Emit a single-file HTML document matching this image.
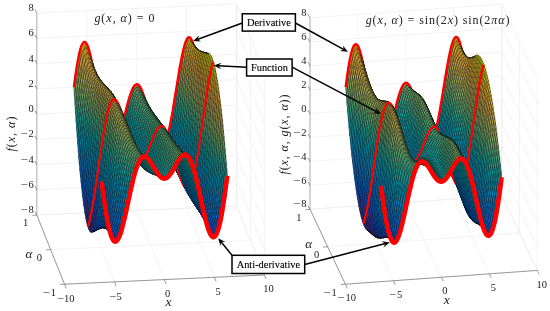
<!DOCTYPE html><html><head><meta charset="utf-8"><title>Fractional derivative surfaces</title><style>html,body{margin:0;padding:0;background:#fff}svg{display:block}.fgL{fill:url(#gL);stroke:url(#gL);stroke-width:.5}.fgR{fill:url(#gR);stroke:url(#gR);stroke-width:.5}.r{fill:none;stroke:#000;stroke-width:0.55}.c{fill:none;stroke:#000;stroke-width:0.45}.s{fill:none;stroke:#000;stroke-width:1;stroke-linecap:round}</style></head><body>
<svg width="550" height="311" viewBox="0 0 550 311" font-family="'Liberation Serif',serif" fill="#222">
<rect width="550" height="311" fill="#fff"/>
<line x1="64.5" y1="284.2" x2="36.8" y2="215.1" stroke="#ebebeb" stroke-width="0.6"/>
<line x1="36.8" y1="215.1" x2="36.8" y2="13.0" stroke="#ebebeb" stroke-width="0.6"/>
<line x1="114.5" y1="281.9" x2="86.8" y2="212.8" stroke="#ebebeb" stroke-width="0.6"/>
<line x1="86.8" y1="212.8" x2="86.8" y2="10.7" stroke="#ebebeb" stroke-width="0.6"/>
<line x1="164.4" y1="279.6" x2="136.8" y2="210.5" stroke="#ebebeb" stroke-width="0.6"/>
<line x1="136.8" y1="210.5" x2="136.8" y2="8.4" stroke="#ebebeb" stroke-width="0.6"/>
<line x1="214.4" y1="277.3" x2="186.7" y2="208.2" stroke="#ebebeb" stroke-width="0.6"/>
<line x1="186.7" y1="208.2" x2="186.7" y2="6.1" stroke="#ebebeb" stroke-width="0.6"/>
<line x1="264.4" y1="275.0" x2="236.7" y2="205.9" stroke="#ebebeb" stroke-width="0.6"/>
<line x1="236.7" y1="205.9" x2="236.7" y2="3.8" stroke="#ebebeb" stroke-width="0.6"/>
<line x1="64.5" y1="284.2" x2="264.4" y2="275.0" stroke="#ebebeb" stroke-width="0.6"/>
<line x1="264.4" y1="275.0" x2="264.4" y2="72.9" stroke="#ebebeb" stroke-width="0.6"/>
<line x1="50.6" y1="249.6" x2="250.5" y2="240.4" stroke="#ebebeb" stroke-width="0.6"/>
<line x1="250.5" y1="240.4" x2="250.5" y2="38.4" stroke="#ebebeb" stroke-width="0.6"/>
<line x1="36.8" y1="215.1" x2="236.7" y2="205.9" stroke="#ebebeb" stroke-width="0.6"/>
<line x1="236.7" y1="205.9" x2="236.7" y2="3.8" stroke="#ebebeb" stroke-width="0.6"/>
<line x1="36.8" y1="215.1" x2="236.7" y2="205.9" stroke="#ebebeb" stroke-width="0.6"/>
<line x1="236.7" y1="205.9" x2="264.4" y2="275.0" stroke="#ebebeb" stroke-width="0.6"/>
<line x1="36.8" y1="189.8" x2="236.7" y2="180.6" stroke="#ebebeb" stroke-width="0.6"/>
<line x1="236.7" y1="180.6" x2="264.4" y2="249.7" stroke="#ebebeb" stroke-width="0.6"/>
<line x1="36.8" y1="164.6" x2="236.7" y2="155.4" stroke="#ebebeb" stroke-width="0.6"/>
<line x1="236.7" y1="155.4" x2="264.4" y2="224.5" stroke="#ebebeb" stroke-width="0.6"/>
<line x1="36.8" y1="139.3" x2="236.7" y2="130.1" stroke="#ebebeb" stroke-width="0.6"/>
<line x1="236.7" y1="130.1" x2="264.4" y2="199.2" stroke="#ebebeb" stroke-width="0.6"/>
<line x1="36.8" y1="114.1" x2="236.7" y2="104.9" stroke="#ebebeb" stroke-width="0.6"/>
<line x1="236.7" y1="104.9" x2="264.4" y2="174.0" stroke="#ebebeb" stroke-width="0.6"/>
<line x1="36.8" y1="88.8" x2="236.7" y2="79.6" stroke="#ebebeb" stroke-width="0.6"/>
<line x1="236.7" y1="79.6" x2="264.4" y2="148.7" stroke="#ebebeb" stroke-width="0.6"/>
<line x1="36.8" y1="63.5" x2="236.7" y2="54.3" stroke="#ebebeb" stroke-width="0.6"/>
<line x1="236.7" y1="54.3" x2="264.4" y2="123.4" stroke="#ebebeb" stroke-width="0.6"/>
<line x1="36.8" y1="38.3" x2="236.7" y2="29.1" stroke="#ebebeb" stroke-width="0.6"/>
<line x1="236.7" y1="29.1" x2="264.4" y2="98.2" stroke="#ebebeb" stroke-width="0.6"/>
<line x1="36.8" y1="13.0" x2="236.7" y2="3.8" stroke="#ebebeb" stroke-width="0.6"/>
<line x1="236.7" y1="3.8" x2="264.4" y2="72.9" stroke="#ebebeb" stroke-width="0.6"/>
<line x1="64.5" y1="284.2" x2="264.4" y2="275.0" stroke="#707070" stroke-width="0.7"/>
<line x1="64.5" y1="284.2" x2="36.8" y2="215.1" stroke="#707070" stroke-width="0.7"/>
<line x1="36.8" y1="215.1" x2="36.8" y2="13.0" stroke="#a0a0a0" stroke-width="0.8"/>
<line x1="64.5" y1="284.2" x2="66.2" y2="288.4" stroke="#707070" stroke-width="0.7"/>
<line x1="114.5" y1="281.9" x2="116.1" y2="286.1" stroke="#707070" stroke-width="0.7"/>
<line x1="164.4" y1="279.6" x2="166.1" y2="283.8" stroke="#707070" stroke-width="0.7"/>
<line x1="214.4" y1="277.3" x2="216.1" y2="281.5" stroke="#707070" stroke-width="0.7"/>
<line x1="264.4" y1="275.0" x2="266.1" y2="279.2" stroke="#707070" stroke-width="0.7"/>
<line x1="64.5" y1="284.2" x2="60.0" y2="284.4" stroke="#707070" stroke-width="0.7"/>
<line x1="50.6" y1="249.6" x2="46.2" y2="249.9" stroke="#707070" stroke-width="0.7"/>
<line x1="36.8" y1="215.1" x2="32.3" y2="215.3" stroke="#707070" stroke-width="0.7"/>
<line x1="36.8" y1="215.1" x2="34.8" y2="211.5" stroke="#707070" stroke-width="0.7"/>
<line x1="36.8" y1="189.8" x2="34.8" y2="186.2" stroke="#707070" stroke-width="0.7"/>
<line x1="36.8" y1="164.6" x2="34.8" y2="161.0" stroke="#707070" stroke-width="0.7"/>
<line x1="36.8" y1="139.3" x2="34.8" y2="135.7" stroke="#707070" stroke-width="0.7"/>
<line x1="36.8" y1="114.1" x2="34.8" y2="110.5" stroke="#707070" stroke-width="0.7"/>
<line x1="36.8" y1="88.8" x2="34.8" y2="85.2" stroke="#707070" stroke-width="0.7"/>
<line x1="36.8" y1="63.5" x2="34.8" y2="59.9" stroke="#707070" stroke-width="0.7"/>
<line x1="36.8" y1="38.3" x2="34.8" y2="34.7" stroke="#707070" stroke-width="0.7"/>
<line x1="36.8" y1="13.0" x2="34.8" y2="9.4" stroke="#707070" stroke-width="0.7"/>
<text x="20.9" y="213.2" font-size="10.5" textLength="7.2" lengthAdjust="spacingAndGlyphs">−</text><text x="33.8" y="213.2" font-size="10.5" text-anchor="end">8</text>
<text x="20.9" y="187.9" font-size="10.5" textLength="7.2" lengthAdjust="spacingAndGlyphs">−</text><text x="33.8" y="187.9" font-size="10.5" text-anchor="end">6</text>
<text x="20.9" y="162.7" font-size="10.5" textLength="7.2" lengthAdjust="spacingAndGlyphs">−</text><text x="33.8" y="162.7" font-size="10.5" text-anchor="end">4</text>
<text x="20.9" y="137.4" font-size="10.5" textLength="7.2" lengthAdjust="spacingAndGlyphs">−</text><text x="33.8" y="137.4" font-size="10.5" text-anchor="end">2</text>
<text x="31.2" y="112.2" font-size="10.5" text-anchor="middle">0</text>
<text x="31.2" y="86.9" font-size="10.5" text-anchor="middle">2</text>
<text x="31.2" y="61.6" font-size="10.5" text-anchor="middle">4</text>
<text x="31.2" y="36.4" font-size="10.5" text-anchor="middle">6</text>
<text x="31.2" y="11.1" font-size="10.5" text-anchor="middle">8</text>
<text x="43.0" y="295.5" font-size="10.5" textLength="7.2" lengthAdjust="spacingAndGlyphs">−</text><text x="55.9" y="295.5" font-size="10.5" text-anchor="end">1</text>
<text x="39.4" y="260.9" font-size="10.5" text-anchor="middle">0</text>
<text x="25.6" y="226.4" font-size="10.5" text-anchor="middle">1</text>
<text x="57.3" y="301.9" font-size="10.5" textLength="7.2" lengthAdjust="spacingAndGlyphs">−</text><text x="74.5" y="301.9" font-size="10.5" text-anchor="end">10</text>
<text x="109.5" y="299.7" font-size="10.5" textLength="7.2" lengthAdjust="spacingAndGlyphs">−</text><text x="121.8" y="299.7" font-size="10.5" text-anchor="end">5</text>
<text x="167.7" y="296.9" font-size="10.5" text-anchor="middle">0</text>
<text x="218.1" y="294.5" font-size="10.5" text-anchor="middle">5</text>
<text x="268.4" y="291.7" font-size="10.5" text-anchor="middle">10</text>
<defs><linearGradient id="gL" gradientUnits="userSpaceOnUse" x1="-0.93" y1="-20.17" x2="-8.35" y2="-181.49"><stop offset="0%" stop-color="#352a87"/><stop offset="4.5%" stop-color="#3636a0"/><stop offset="9.1%" stop-color="#3046bd"/><stop offset="13.6%" stop-color="#135adb"/><stop offset="18.2%" stop-color="#026ae1"/><stop offset="22.7%" stop-color="#0d75dc"/><stop offset="27.3%" stop-color="#137fd6"/><stop offset="31.8%" stop-color="#128bd2"/><stop offset="36.4%" stop-color="#0899d1"/><stop offset="40.9%" stop-color="#06a4c9"/><stop offset="45.5%" stop-color="#0aacbd"/><stop offset="50%" stop-color="#1db3af"/><stop offset="54.5%" stop-color="#37b99e"/><stop offset="59.1%" stop-color="#58bd8c"/><stop offset="63.6%" stop-color="#7cbf7c"/><stop offset="68.2%" stop-color="#9cbf6e"/><stop offset="72.7%" stop-color="#b8bd63"/><stop offset="77.3%" stop-color="#d2bb58"/><stop offset="81.8%" stop-color="#ecb94d"/><stop offset="86.4%" stop-color="#fec03a"/><stop offset="90.9%" stop-color="#fad12b"/><stop offset="95.5%" stop-color="#f5e31e"/><stop offset="100%" stop-color="#f9fb0e"/></linearGradient></defs>
<g transform="translate(37.1 215.8)"><path class="fgL" d="M37.4 -119.6l2.5-18.3 2.5-14.5 2.5-9.9 2.6-5 2.5-.1 2.5 4.7 2.5 8.6 2.5 11.7 2.5 13.6 2.5 14.3 2.5 13.9 2.5 12.4 2.6 10 2.5 6.8 2.5 3.3 2.5-.2 2.5-3.5 2.5-6.3 2.5-8.3 2.5-9.5 2.6-9.7 2.5-8.9 2.5-7.2 2.5-4.9 2.5-2.1 2.5 .9 2.5 3.8 2.5 6.4 2.6 8.4 2.5 9.5 2.5 9.7 2.5 9 2.5 7.2 2.5 4.7 2.5 1.6 2.5-2.1 2.5-5.7 2.6-9.2 2.5-12.1 2.5-14.1 2.5-15.2 2.5-15.1 2.5-13.7 2.5-11 2.5-7.5 2.6-2.9 2.5 2.1 2.5 7.3 2.5 12.2 2.5 16.7-.5 3.3-2.6-18-2.5-13.8-2.5-8.8-2.5-3.5-2.5 1.8-2.5 6.5-2.5 10.5-2.5 13.4-2.6 15.2-2.5 15.6-2.5 14.8-2.5 12.8-2.5 10.1-2.5 6.6-2.5 2.9-2.5-.9-2.6-4.2-2.5-7.1-2.5-9-2.5-10-2.5-10-2.5-9-2.5-7-2.5-4.5-2.6-1.5-2.5 1.7-2.5 4.7-2.5 7.3-2.5 9.2-2.5 10.2-2.5 10.3-2.5 9.2-2.5 7.3-2.6 4.5-2.5 1.1-2.5-2.6-2.5-6.4-2.5-9.8-2.5-12.7-2.5-14.6-2.5-15.3-2.6-14.9-2.5-13.3-2.5-10.2-2.5-6.3-2.5-1.5-2.5 3.7-2.5 9-2.5 14-2.6 18.3z"/><path class="r" d="M36.8 -128.7l1.3-9.6 1.3-8.7 1.2-7.6 1.3-6.4 1.2-5.2 1.3-3.8 1.2-2.5 1.3-1.2 1.3 .1 1.2 1.4 1.3 2.6 1.2 3.7 1.3 4.7 1.2 5.5 1.3 6.4 1.2 6.9 1.3 7.3 1.3 7.6 1.2 7.7 1.3 7.6 1.2 7.5 1.3 7.1 1.2 6.6 1.3 6.1 1.2 5.3 1.3 4.5 1.3 3.6 1.2 2.8 1.3 1.8 1.2 .8 1.3-.1 1.2-1 1.3-1.8 1.3-2.7 1.2-3.3 1.3-4 1.2-4.4 1.3-4.8 1.2-5.1 1.3-5.2 1.2-5.2 1.3-5 1.3-4.8 1.2-4.4 1.3-3.9 1.2-3.4 1.3-2.7 1.2-2 1.3-1.2 1.2-.5 1.3 .3 1.3 1.2 1.2 1.9 1.3 2.6 1.2 3.2 1.3 3.8 1.2 4.3 1.3 4.7 1.3 4.9 1.2 5.1 1.3 5 1.2 5 1.3 4.7 1.2 4.3 1.3 3.8 1.2 3.3 1.3 2.5 1.3 1.7 1.2 .9 1.3 0 1.2-1 1.3-1.9 1.2-2.8 1.3-3.8 1.3-4.6 1.2-5.5 1.3-6.1 1.2-6.7 1.3-7.3 1.2-7.5 1.3-7.8 1.2-7.8 1.3-7.7 1.3-7.5 1.2-7 1.3-6.4 1.2-5.7 1.3-4.8 1.2-3.8 1.3-2.7 1.2-1.5 1.3-.3 1.3 1.1 1.2 2.4 1.3 3.7 1.2 5.1 1.3 6.3 1.2 7.5 1.3 8.5 1.3 9.5"/><path class="c" d="M162.5 -134.5m0 0l.5-3.3m-1.8-6.2l.5-2.6m-1.8-5.9l.6-2m-1.8-5.5l.5-1.2m-1.8-5.1l.6-.4m-1.8-4.7l.5 .4m-1.8-4.1l.6 1.1m-1.8-3.5l.5 1.8m-1.8-2.9l.6 2.5m-1.9-2.2l.6 3.1m-1.8-1.6l.5 3.6m-1.8-.9l.6 4.1m-1.8-.3l.5 4.6m-1.8 .2l.6 4.9m-1.8 .8l.5 5.1m-1.8 1.3l.6 5.3m-1.8 1.7l.5 5.4m-1.8 2.1l.6 5.4m-1.9 2.3l.6 5.3m-1.8 2.5l.5 5.1m-1.8 2.7l.6 4.9m-1.8 2.6l.5 4.6m-1.8 2.7l.6 4.2m-1.8 2.5l.5 3.9m-1.8 2.2l.6 3.5m-1.8 2l.5 3m-1.8 1.6l.5 2.6m-1.8 1.2l.6 2.1m-1.8 .7l.5 1.7m-1.8 .2l.6 1.3m-1.8-.3l.5 .9m-1.8-.9l.6 .5m-1.8-1.4l.5 .2m-1.8-1.9l.6 0m-1.9-2.5l.6-.3m-1.8-3l.5-.3m-1.8-3.5l.6-.4m-1.8-3.9l.5-.4m-1.8-4.3l.6-.4m-1.8-4.6l.5-.2m-1.8-4.8l.6-.1m-1.8-5l.5 .1m-1.8-5l.6 .4m-1.9-5.1l.6 .7m-1.8-5l.5 1m-1.8-4.8l.6 1.3m-1.8-4.5l.5 1.6m-1.8-4.2l.6 1.9m-1.8-3.8l.5 2.3m-1.8-3.5l.6 2.7m-1.9-3l.6 2.9m-1.8-2.4l.5 3.1m-1.8-1.9l.6 3.3m-1.8-1.3l.5 3.4m-1.8-.7l.6 3.5m-1.8-.1l.5 3.5m-1.8 .4l.6 3.4m-1.8 1l.5 3.3m-1.8 1.5l.6 3.1m-1.9 1.9l.6 2.9m-1.8 2.3l.5 2.6m-1.8 2.6l.6 2.2m-1.8 2.9l.5 1.8m-1.8 3l.6 1.3m-1.8 3.1l.5 .9m-1.8 3.1l.6 .4m-1.8 2.9l.5-.1m-1.8 2.8l.6-.7m-1.9 2.5l.6-1.1m-1.8 2.1l.5-1.6m-1.8 1.7l.6-2m-1.8 1.2l.5-2.4m-1.8 .6l.6-2.7m-1.8-.1l.5-2.9m-1.8-.7l.6-3.1m-1.9-1.4l.6-3.3m-1.8-2l.5-3.3m-1.8-2.8l.6-3.1m-1.8-3.5l.5-3m-1.8-4.1l.6-2.7m-1.8-4.8l.5-2.3m-1.8-5.3l.6-1.9m-1.8-5.8l.5-1.3m-1.8-6.3l.6-.7m-1.9-6.6l.6 0m-1.8-6.9l.5 .7m-1.8-7.1l.6 1.6m-1.8-7.1l.5 2.3m-1.8-7l.6 3.2m-1.8-6.9l.5 4m-1.8-6.6l.6 4.8m-1.8-6.2l.5 5.6m-1.8-5.7l.6 6.4m-1.9-5.2l.6 7m-1.8-4.5l.5 7.7m-1.8-3.9l.6 8.3m-1.8-3.1l.5 8.6m-1.8-2.2l.6 9m-1.8-1.4l.5 9.1m-1.8-.4l.6 9.2m-1.9 .4l.6 9.1"/><path class="s" d="M53.7 -158.9L53.2 -161.2M78.9 -69.7L78.3 -69M106.5 -121.1L105.9 -122.4M124.1 -67.9L123.5 -68.4M155.5 -174L154.9 -175.1"/></g>
<g transform="translate(37.6 217.2)"><path class="fgL" d="M37.5 -112.2l2.5-18.2 2.5-14.9 2.5-10.9 2.5-6.2 2.5-1.5 2.5 3 2.5 7 2.6 10.2 2.5 12.3 2.5 13.4 2.5 13.3 2.5 12.1 2.5 10 2.5 7.2 2.5 4 2.5 .6 2.6-2.5 2.5-5.3 2.5-7.5 2.5-8.7 2.5-9.1 2.5-8.6 2.5-7.2 2.5-5.1 2.6-2.5 2.5 .4 2.5 3.2 2.5 5.7 2.5 7.8 2.5 9 2.5 9.5 2.5 8.9 2.6 7.4 2.5 5.2 2.5 2.1 2.5-1.3 2.5-4.9 2.5-8.3 2.5-11.2 2.5-13.6 2.6-14.7 2.5-15 2.5-13.9 2.5-11.6 2.5-8.3 2.5-4.1 2.5 .7 2.5 5.9 2.5 10.8 2.6 15.2-.6 3.2-2.5-16.7-2.5-12.2-2.5-7.3-2.5-2.1-2.6 2.9-2.5 7.5-2.5 11-2.5 13.7-2.5 15.1-2.5 15.2-2.5 14.1-2.5 12.1-2.6 9.2-2.5 5.7-2.5 2.1-2.5-1.6-2.5-4.7-2.5-7.2-2.5-9-2.5-9.7-2.5-9.5-2.6-8.4-2.5-6.4-2.5-3.8-2.5-.9-2.5 2.1-2.5 4.9-2.5 7.2-2.5 8.9-2.6 9.7-2.5 9.5-2.5 8.3-2.5 6.3-2.5 3.5-2.5 .2-2.5-3.3-2.5-6.8-2.6-10-2.5-12.4-2.5-13.9-2.5-14.3-2.5-13.6-2.5-11.7-2.5-8.6-2.5-4.7-2.5 .1-2.6 5-2.5 9.9-2.5 14.5-2.5 18.3z"/><path class="r" d="M36.9 -121l1.3-9.5 1.2-8.8 1.3-7.7 1.2-6.8 1.3-5.5 1.2-4.4 1.3-3.2 1.3-1.8 1.2-.7 1.3 .6 1.2 1.8 1.3 2.9 1.2 3.8 1.3 4.8 1.2 5.5 1.3 6.2 1.3 6.6 1.2 7 1.3 7.1 1.2 7.2 1.3 7.1 1.2 6.8 1.3 6.5 1.2 5.9 1.3 5.3 1.3 4.7 1.2 3.8 1.3 3 1.2 2.1 1.3 1.2 1.2 .3 1.3-.5 1.3-1.4 1.2-2.1 1.3-2.8 1.2-3.5 1.3-4 1.2-4.3 1.3-4.7 1.2-4.8 1.3-4.9 1.3-4.8 1.2-4.6 1.3-4.3 1.2-3.8 1.3-3.4 1.2-2.8 1.3-2.1 1.2-1.4 1.3-.7 1.3 .1 1.2 .8 1.3 1.5 1.2 2.3 1.3 2.9 1.2 3.5 1.3 4 1.3 4.4 1.2 4.6 1.3 4.9 1.2 4.9 1.3 4.8 1.2 4.7 1.3 4.3 1.2 3.9 1.3 3.3 1.3 2.8 1.2 1.9 1.3 1.2 1.2 .4 1.3-.6 1.2-1.5 1.3-2.4 1.2-3.3 1.3-4.2 1.3-5 1.2-5.7 1.3-6.4 1.2-6.9 1.3-7.2 1.2-7.6 1.3-7.6 1.3-7.6 1.2-7.5 1.3-7.1 1.2-6.6 1.3-5.9 1.2-5.1 1.3-4.3 1.2-3.2 1.3-2 1.3-.9 1.2 .4 1.3 1.7 1.2 3 1.3 4.3 1.2 5.5 1.3 6.7 1.2 7.9 1.3 8.8"/><path class="c" d="M162.5 -139.2m0 0l.6-3.2m-1.9-5.6l.6-2.5m-1.8-5.4l.5-1.7m-1.8-5l.6-1m-1.8-4.5l.5-.3m-1.8-4l.6 .4m-1.8-3.4l.5 1.1m-1.8-2.8l.6 1.9m-1.8-2.3l.5 2.5m-1.8-1.6l.6 3.1m-1.9-1.1l.6 3.7m-1.8-.5l.5 4.2m-1.8 .1l.6 4.5m-1.8 .6l.5 4.9m-1.8 1l.6 5.1m-1.8 1.5l.5 5.3m-1.8 1.8l.6 5.3m-1.8 2.2l.5 5.2m-1.8 2.4l.6 5.2m-1.9 2.4l.6 5m-1.8 2.6l.5 4.7m-1.8 2.5l.6 4.5m-1.8 2.4l.5 4.2m-1.8 2.2l.6 3.7m-1.8 2l.5 3.3m-1.8 1.7l.6 2.9m-1.9 1.3l.6 2.4m-1.8 .9l.5 2m-1.8 .4l.6 1.6m-1.8-.1l.5 1.2m-1.8-.6l.6 .8m-1.8-1.2l.5 .5m-1.8-1.7l.6 .3m-1.8-2.2l.5-.1m-1.8-2.7l.6-.2m-1.9-3.1l.6-.3m-1.8-3.6l.5-.4m-1.8-3.9l.6-.4m-1.8-4.3l.5-.3m-1.8-4.5l.6-.2m-1.8-4.7l.5-.1m-1.8-4.8l.6 .2m-1.8-4.8l.5 .4m-1.8-4.8l.6 .7m-1.9-4.7l.6 1m-1.8-4.5l.5 1.4m-1.8-4.3l.6 1.7m-1.8-4l.5 2m-1.8-3.5l.6 2.3m-1.8-3.1l.5 2.5m-1.8-2.6l.6 2.8m-1.9-2.1l.6 3m-1.8-1.6l.5 3.2m-1.8-1.1l.6 3.4m-1.8-.6l.5 3.4m-1.8 0l.6 3.4m-1.8 .4l.5 3.4m-1.8 .9l.6 3.3m-1.8 1.3l.5 3.1m-1.8 1.7l.6 2.8m-1.9 2.1l.6 2.5m-1.8 2.3l.5 2.2m-1.8 2.5l.6 1.7m-1.8 2.6l.5 1.4m-1.8 2.6l.6 .9m-1.8 2.6l.5 .3m-1.8 2.5l.6-.1m-1.8 2.2l.5-.6m-1.8 2l.5-1.1m-1.8 1.6l.6-1.5m-1.8 1.2l.5-1.9m-1.8 .7l.6-2.3m-1.8 .2l.5-2.6m-1.8-.4l.6-2.8m-1.8-1l.5-3m-1.8-1.7l.6-3m-1.9-2.3l.6-3m-1.8-2.9l.5-3m-1.8-3.5l.6-2.7m-1.8-4.1l.5-2.5m-1.8-4.6l.6-2.1m-1.8-5.1l.5-1.6m-1.8-5.5l.6-1.2m-1.8-5.8l.5-.5m-1.8-6.1l.6 .1m-1.9-6.3l.6 .9m-1.8-6.4l.5 1.6m-1.8-6.4l.6 2.4m-1.8-6.2l.5 3.2m-1.8-6.1l.6 4m-1.8-5.8l.5 4.9m-1.8-5.5l.6 5.6m-1.8-4.9l.5 6.3m-1.8-4.5l.5 7m-1.8-3.8l.6 7.5m-1.8-3.1l.5 8m-1.8-2.5l.6 8.5m-1.8-1.7l.5 8.7m-1.8-1l.6 8.9m-1.8-.1l.5 8.9m-1.8 .6l.6 8.8"/><path class="s" d="M55 -153.9L54.5 -155.5M78.9 -71.7L78.4 -71.1M106.5 -121.1L106 -122.5M124.1 -68.8L123.6 -69.3M155.5 -174.3L155 -175.4M53.2 -160.3L54.5 -155.5"/></g>
<path d="M73.9,87.1 74.7,81.0 75.5,75.2 76.3,69.8 77.1,64.9 77.9,60.4 78.7,56.3 79.4,52.7 80.2,49.6 81.0,47.1 81.8,45.0 82.6,43.5 83.4,42.5 84.2,42.0 84.9,42.0 85.7,42.6 86.5,43.6 87.3,45.1 88.1,47.0 88.9,49.4 89.6,52.1 90.4,55.2 91.2,58.7 92.0,62.4 92.8,66.5 93.6,70.7 94.4,75.2 95.1,79.7 95.9,84.5 96.7,89.2 97.5,94.1 98.3,98.9 99.1,103.6 99.9,108.3 100.6,112.9 101.4,117.3 102.2,121.6 103.0,125.6 103.8,129.4 104.6,132.9 105.3,136.2 106.1,139.1 106.9,141.7 107.7,143.9 108.5,145.8 109.3,147.3 110.1,148.5 110.8,149.3 111.6,149.7 112.4,149.8 113.2,149.4 114.0,148.8 114.8,147.8 115.6,146.5 116.3,144.8 117.1,142.9 117.9,140.8 118.7,138.4 119.5,135.8 120.3,133.0 121.0,130.0 121.8,127.0 122.6,123.8 123.4,120.6 124.2,117.3 125.0,114.1 125.8,110.9 126.5,107.7 127.3,104.7 128.1,101.7 128.9,99.0 129.7,96.4 130.5,94.0 131.3,91.8 132.0,89.9 132.8,88.2 133.6,86.8 134.4,85.7 135.2,84.9 136.0,84.4 136.8,84.2 137.5,84.3 138.3,84.7 139.1,85.5 139.9,86.5 140.7,87.8 141.5,89.4 142.2,91.3 143.0,93.4 143.8,95.7 144.6,98.3 145.4,101.0 146.2,103.8 147.0,106.8 147.7,109.9 148.5,113.0 149.3,116.2 150.1,119.3 150.9,122.5 151.7,125.6 152.5,128.6 153.2,131.5 154.0,134.2 154.8,136.7 155.6,139.0 156.4,141.1 157.2,143.0 157.9,144.5 158.7,145.8 159.5,146.7 160.3,147.3 161.1,147.5 161.9,147.4 162.7,146.9 163.4,146.1 164.2,144.8 165.0,143.2 165.8,141.3 166.6,138.9 167.4,136.3 168.2,133.3 168.9,130.0 169.7,126.4 170.5,122.5 171.3,118.4 172.1,114.1 172.9,109.6 173.6,104.9 174.4,100.2 175.2,95.3 176.0,90.4 176.8,85.6 177.6,80.7 178.4,75.9 179.1,71.2 179.9,66.7 180.7,62.4 181.5,58.3 182.3,54.5 183.1,51.0 183.9,47.8 184.6,45.0 185.4,42.5 186.2,40.5 187.0,39.0 187.8,37.9 188.6,37.3 189.3,37.2 190.1,37.6 190.9,38.5 191.7,40.0 192.5,41.9 193.3,44.4 194.1,47.4 194.8,51.0 195.6,54.9 196.4,59.4 197.2,64.3 198.0,69.6 198.8,75.3 199.6,81.3" fill="none" stroke="#ff0000" stroke-width="2.4" stroke-linecap="butt" stroke-linejoin="round"/>
<g transform="translate(38.2 218.6)"><path class="fgL" d="M37.4 -105.1l2.5-18.1 2.5-15.3 2.5-11.7 2.6-7.4 2.5-3 2.5 1.5 2.5 5.5 2.5 8.7 2.5 11.1 2.5 12.5 2.5 12.6 2.6 11.8 2.5 10.1 2.5 7.5 2.5 4.7 2.5 1.4 2.5-1.6 2.5-4.4 2.5-6.6 2.6-8 2.5-8.6 2.5-8.2 2.5-7.2 2.5-5.2 2.5-2.9 2.5-.2 2.5 2.6 2.5 5.1 2.6 7.2 2.5 8.6 2.5 9.2 2.5 8.9 2.5 7.6 2.5 5.5 2.5 2.7 2.5-.6 2.6-4 2.5-7.4 2.5-10.5 2.5-12.9 2.5-14.4 2.5-14.8 2.5-14 2.5-12.2 2.6-9.1 2.5-5.2 2.5-.6 2.5 4.4 2.5 9.4 2.5 13.9-.5 2.9-2.6-15.2-2.5-10.8-2.5-5.9-2.5-.7-2.5 4.1-2.5 8.3-2.5 11.6-2.5 13.9-2.5 15-2.6 14.7-2.5 13.6-2.5 11.2-2.5 8.3-2.5 4.9-2.5 1.3-2.5-2.1-2.5-5.2-2.6-7.4-2.5-8.9-2.5-9.5-2.5-9-2.5-7.8-2.5-5.7-2.5-3.2-2.5-.4-2.6 2.5-2.5 5.1-2.5 7.2-2.5 8.6-2.5 9.1-2.5 8.7-2.5 7.5-2.5 5.3-2.6 2.5-2.5-.6-2.5-4-2.5-7.2-2.5-10-2.5-12.1-2.5-13.3-2.5-13.4-2.5-12.3-2.6-10.2-2.5-7-2.5-3-2.5 1.5-2.5 6.2-2.5 10.9-2.5 14.9-2.5 18.2z"/><path class="r" d="M36.9 -113.6l1.2-9.4 1.3-8.8 1.2-7.9 1.3-7 1.2-6 1.3-4.9 1.2-3.7 1.3-2.5 1.3-1.4 1.2-.1 1.3 .9 1.2 2.1 1.3 3 1.2 4 1.3 4.8 1.3 5.4 1.2 6 1.3 6.3 1.2 6.7 1.3 6.7 1.2 6.7 1.3 6.6 1.2 6.2 1.3 5.9 1.3 5.3 1.2 4.7 1.3 4 1.2 3.2 1.3 2.4 1.2 1.6 1.3 .7 1.2-.1 1.3-.9 1.3-1.6 1.2-2.4 1.3-2.9 1.2-3.5 1.3-4 1.2-4.2 1.3-4.5 1.3-4.6 1.2-4.5 1.3-4.4 1.2-4.2 1.3-3.8 1.2-3.4 1.3-2.8 1.2-2.3 1.3-1.6 1.3-.9 1.2-.2 1.3 .6 1.2 1.2 1.3 2 1.2 2.6 1.3 3.1 1.3 3.7 1.2 4.1 1.3 4.4 1.2 4.6 1.3 4.8 1.2 4.7 1.3 4.6 1.2 4.3 1.3 4 1.3 3.4 1.2 2.9 1.3 2.3 1.2 1.4 1.3 .7 1.2-.2 1.3-1.1 1.2-2 1.3-2.9 1.3-3.7 1.2-4.6 1.3-5.3 1.2-5.9 1.3-6.6 1.2-7 1.3-7.3 1.3-7.4 1.2-7.6 1.3-7.4 1.2-7.1 1.3-6.8 1.2-6.1 1.3-5.5 1.2-4.6 1.3-3.7 1.3-2.6 1.2-1.5 1.3-.2 1.2 .9 1.3 2.3 1.2 3.6 1.3 4.8 1.2 6 1.3 7.1 1.3 8.1"/><path class="c" d="M162.5 -143.8m0 0l.5-2.9m-1.8-5.2l.6-2.3m-1.9-4.8l.6-1.6m-1.8-4.4l.5-.9m-1.8-3.9l.6-.2m-1.8-3.4l.5 .6m-1.8-2.9l.6 1.3m-1.8-2.2l.5 1.9m-1.8-1.7l.6 2.6m-1.8-1.1l.5 3.2m-1.8-.6l.6 3.7m-1.9 0l.6 4.1m-1.8 .5l.5 4.5m-1.8 1l.6 4.8m-1.8 1.3l.5 5.1m-1.8 1.7l.6 5.1m-1.8 2l.5 5.2m-1.8 2.2l.6 5.2m-1.8 2.4l.5 5m-1.8 2.4l.5 4.9m-1.8 2.4l.6 4.7m-1.8 2.3l.5 4.4m-1.8 2.2l.6 4m-1.8 1.9l.5 3.7m-1.8 1.6l.6 3.3m-1.8 1.3l.5 2.8m-1.8 .9l.6 2.4m-1.9 .5l.6 2m-1.8 0l.5 1.5m-1.8-.4l.6 1.1m-1.8-.9l.5 .8m-1.8-1.5l.6 .5m-1.8-1.9l.5 .2m-1.8-2.5l.6 0m-1.8-2.9l.5-.1m-1.8-3.3l.6-.3m-1.9-3.7l.6-.3m-1.8-4l.5-.4m-1.8-4.2l.6-.3m-1.8-4.4l.5-.2m-1.8-4.6l.6 0m-1.8-4.6l.5 .2m-1.8-4.6l.6 .4m-1.8-4.5l.5 .7m-1.8-4.4l.5 1m-1.8-4.1l.6 1.3m-1.8-3.9l.5 1.6m-1.8-3.6l.6 2m-1.8-3.2l.5 2.2m-1.8-2.8l.6 2.6m-1.8-2.4l.5 2.8m-1.8-1.9l.6 3m-1.9-1.4l.6 3.2m-1.8-.9l.5 3.2m-1.8-.4l.6 3.3m-1.8 .1l.5 3.3m-1.8 .5l.6 3.3m-1.8 .9l.5 3.1m-1.8 1.3l.6 2.9m-1.8 1.6l.5 2.8m-1.8 1.8l.6 2.4m-1.9 2.1l.6 2.1m-1.8 2.1l.5 1.7m-1.8 2.3l.6 1.2m-1.8 2.3l.5 .8m-1.8 2.1l.6 .4m-1.8 2l.5-.1m-1.8 1.7l.6-.5m-1.9 1.4l.6-1m-1.8 1.1l.5-1.4m-1.8 .7l.6-1.8m-1.8 .2l.5-2.2m-1.8-.2l.6-2.5m-1.8-.7l.5-2.7m-1.8-1.3l.6-2.8m-1.8-1.9l.5-2.9m-1.8-2.4l.6-2.9m-1.9-3l.6-2.7m-1.8-3.5l.5-2.6m-1.8-4l.6-2.3m-1.8-4.4l.5-1.9m-1.8-4.8l.6-1.6m-1.8-5.1l.5-1m-1.8-5.3l.6-.4m-1.8-5.6l.5 .2m-1.8-5.6l.6 .9m-1.9-5.7l.6 1.7m-1.8-5.7l.5 2.5m-1.8-5.5l.6 3.2m-1.8-5.3l.5 4.1m-1.8-5l.6 4.7m-1.8-4.6l.5 5.5m-1.8-4.1l.6 6.2m-1.9-3.7l.6 6.8m-1.8-3.1l.5 7.4m-1.8-2.5l.6 7.8m-1.8-1.8l.5 8.2m-1.8-1.2l.6 8.4m-1.8-.5l.5 8.6m-1.8 .2l.6 8.6m-1.8 .8l.5 8.5"/><path class="s" d="M55 -153.6L54.4 -155.3M78.9 -73.6L78.3 -73.1M106.5 -121.2L105.9 -122.5M124.1 -69.7L123.5 -70.2M156.7 -172.8L156.2 -173.4M154.9 -175.7L156.2 -173.4"/></g>
<g transform="translate(38.7 219.9)"><path class="fgL" d="M37.5 -98.2l2.5-18 2.5-15.7 2.5-12.4 2.5-8.5 2.5-4.3 2.5 0 2.5 4 2.6 7.3 2.5 9.9 2.5 11.5 2.5 12 2.5 11.5 2.5 10.1 2.5 7.9 2.5 5.2 2.6 2.3 2.5-.8 2.5-3.5 2.5-5.7 2.5-7.3 2.5-8.1 2.5-7.9 2.5-7.1 2.6-5.4 2.5-3.2 2.5-.7 2.5 2 2.5 4.5 2.5 6.6 2.5 8.2 2.5 8.9 2.6 8.7 2.5 7.8 2.5 5.9 2.5 3.3 2.5 .2 2.5-3.3 2.5-6.6 2.5-9.7 2.5-12.2 2.6-14 2.5-14.7 2.5-14.2 2.5-12.6 2.5-9.9 2.5-6.3 2.5-1.8 2.5 3 2.6 8 2.5 12.6-.6 2.7-2.5-13.9-2.5-9.4-2.5-4.4-2.5 .6-2.5 5.2-2.6 9.1-2.5 12.2-2.5 14-2.5 14.8-2.5 14.4-2.5 12.9-2.5 10.5-2.5 7.4-2.6 4-2.5 .6-2.5-2.7-2.5-5.5-2.5-7.6-2.5-8.9-2.5-9.2-2.5-8.6-2.6-7.2-2.5-5.1-2.5-2.6-2.5 .2-2.5 2.9-2.5 5.2-2.5 7.2-2.5 8.2-2.5 8.6-2.6 8-2.5 6.6-2.5 4.4-2.5 1.6-2.5-1.4-2.5-4.7-2.5-7.5-2.5-10.1-2.6-11.8-2.5-12.6-2.5-12.5-2.5-11.1-2.5-8.7-2.5-5.5-2.5-1.5-2.5 3-2.6 7.4-2.5 11.7-2.5 15.3-2.5 18.1z"/><path class="r" d="M36.9 -106.4l1.3-9.3 1.2-8.8 1.3-8.1 1.2-7.2 1.3-6.4 1.2-5.3 1.3-4.3 1.3-3.1 1.2-2.1 1.3-.9 1.2 .3 1.3 1.2 1.2 2.3 1.3 3.2 1.3 4 1.2 4.7 1.3 5.4 1.2 5.7 1.3 6.1 1.2 6.4 1.3 6.3 1.2 6.3 1.3 6.1 1.3 5.7 1.2 5.3 1.3 4.8 1.2 4.1 1.3 3.4 1.2 2.7 1.3 2 1.2 1.1 1.3 .3 1.3-.4 1.2-1.2 1.3-1.9 1.2-2.5 1.3-3.1 1.2-3.5 1.3-3.8 1.3-4.2 1.2-4.2 1.3-4.4 1.2-4.2 1.3-4 1.2-3.8 1.3-3.4 1.2-2.9 1.3-2.3 1.3-1.8 1.2-1.1 1.3-.4 1.2 .2 1.3 1 1.2 1.6 1.3 2.3 1.2 2.8 1.3 3.4 1.3 3.8 1.2 4.2 1.3 4.4 1.2 4.6 1.3 4.6 1.2 4.5 1.3 4.4 1.3 4 1.2 3.6 1.3 3 1.2 2.5 1.3 1.7 1.2 1 1.3 .1 1.2-.7 1.3-1.5 1.3-2.5 1.2-3.3 1.3-4.1 1.2-4.9 1.3-5.6 1.2-6.2 1.3-6.7 1.2-7.1 1.3-7.3 1.3-7.4 1.2-7.4 1.3-7.2 1.2-6.8 1.3-6.4 1.2-5.8 1.3-5 1.3-4.1 1.2-3.1 1.3-2.1 1.2-.9 1.3 .3 1.2 1.6 1.3 2.8 1.2 4.1 1.3 5.3 1.3 6.4 1.2 7.5"/><path class="c" d="M162.5 -148m0 0l.6-2.7m-1.8-4.8l.5-2m-1.8-4.4l.6-1.4m-1.9-3.9l.6-.7m-1.8-3.4l.5 0m-1.8-2.8l.6 .7m-1.8-2.3l.5 1.4m-1.8-1.7l.6 2m-1.8-1.1l.5 2.6m-1.8-.5l.6 3.2m-1.8-.1l.5 3.7m-1.8 .4l.6 4.1m-1.9 .9l.6 4.5m-1.8 1.3l.5 4.7m-1.8 1.7l.6 4.9m-1.8 1.9l.5 5.1m-1.8 2.1l.6 5.1m-1.8 2.3l.5 5.1m-1.8 2.3l.6 5m-1.9 2.3l.6 4.8m-1.8 2.3l.5 4.6m-1.8 2.1l.6 4.3m-1.8 1.9l.5 3.9m-1.8 1.7l.6 3.5m-1.8 1.4l.5 3.1m-1.8 1l.6 2.7m-1.8 .6l.5 2.3m-1.8 .2l.6 1.9m-1.9-.4l.6 1.6m-1.8-.9l.5 1.2m-1.8-1.3l.6 .8m-1.8-1.8l.5 .5m-1.8-2.2l.6 .2m-1.8-2.7l.5 0m-1.8-3l.6-.2m-1.8-3.4l.5-.3m-1.8-3.7l.6-.4m-1.9-4l.6-.3m-1.8-4.2l.5-.2m-1.8-4.4l.6-.1m-1.8-4.5l.5 .1m-1.8-4.5l.6 .3m-1.8-4.5l.5 .5m-1.8-4.3l.6 .8m-1.9-4.2l.6 1.1m-1.8-3.9l.5 1.3m-1.8-3.6l.6 1.7m-1.8-3.3l.5 2m-1.8-3l.6 2.3m-1.8-2.5l.5 2.5m-1.8-2.1l.6 2.8m-1.8-1.7l.5 3m-1.8-1.2l.6 3.1m-1.9-.8l.6 3.3m-1.8-.4l.5 3.3m-1.8 .1l.6 3.3m-1.8 .5l.5 3.2m-1.8 .8l.6 3.1m-1.8 1.1l.5 2.9m-1.8 1.5l.6 2.6m-1.8 1.6l.5 2.4m-1.8 1.8l.5 2m-1.8 1.8l.6 1.7m-1.8 1.8l.5 1.3m-1.8 1.8l.6 .8m-1.8 1.7l.5 .4m-1.8 1.5l.6-.1m-1.8 1.3l.5-.6m-1.8 1l.6-.9m-1.9 .6l.6-1.4m-1.8 .3l.5-1.8m-1.8-.2l.6-2m-1.8-.7l.5-2.3m-1.8-1.1l.6-2.5m-1.8-1.6l.5-2.7m-1.8-2.1l.6-2.7m-1.8-2.6l.5-2.7m-1.8-3l.6-2.6m-1.9-3.5l.6-2.4m-1.8-3.9l.5-2.1m-1.8-4.2l.6-1.8m-1.8-4.6l.5-1.3m-1.8-4.8l.6-.8m-1.8-4.9l.5-.3m-1.8-5.1l.6 .4m-1.8-5.1l.5 1.1m-1.8-5.1l.5 1.8m-1.8-5l.6 2.5m-1.8-4.8l.5 3.3m-1.8-4.5l.6 4m-1.8-4.3l.5 4.8m-1.8-3.9l.6 5.5m-1.8-3.4l.5 6.1m-1.8-3l.6 6.7m-1.9-2.4l.6 7.2m-1.8-1.9l.5 7.7m-1.8-1.3l.6 7.9m-1.8-.7l.5 8.2m-1.8-.1l.6 8.3m-1.8 .5l.5 8.3m-1.8 1l.6 8.2"/><path class="s" d="M55 -153.1L54.5 -154.9M78.9 -75.5L78.4 -74.9M107.8 -118.6L107.2 -119.7M124.1 -70.5L123.6 -71M156.8 -173.4L156.2 -174.1M106 -122.5L107.2 -119.7"/></g>
<g transform="translate(39.3 221.3)"><path class="fgL" d="M37.4 -91.7l2.5-17.8 2.5-16 2.6-13.2 2.5-9.6 2.5-5.5 2.5-1.4 2.5 2.5 2.5 6 2.5 8.7 2.5 10.6 2.6 11.4 2.5 11.2 2.5 10.1 2.5 8.2 2.5 5.8 2.5 3 2.5 0 2.5-2.6 2.5-4.9 2.6-6.6 2.5-7.5 2.5-7.7 2.5-7 2.5-5.6 2.5-3.5 2.5-1.2 2.5 1.5 2.6 3.9 2.5 6.1 2.5 7.7 2.5 8.6 2.5 8.7 2.5 7.8 2.5 6.3 2.5 3.8 2.6 .9 2.5-2.4 2.5-5.8 2.5-9 2.5-11.6 2.5-13.5 2.5-14.5 2.5-14.4 2.5-13 2.6-10.7 2.5-7.2 2.5-3.1 2.5 1.7 2.5 6.6 2.5 11.3-.5 2.5-2.5-12.6-2.6-8-2.5-3-2.5 1.8-2.5 6.3-2.5 9.9-2.5 12.6-2.5 14.2-2.5 14.7-2.6 14-2.5 12.2-2.5 9.7-2.5 6.6-2.5 3.3-2.5-.2-2.5-3.3-2.5-5.9-2.5-7.8-2.6-8.7-2.5-8.9-2.5-8.2-2.5-6.6-2.5-4.5-2.5-2-2.5 .7-2.5 3.2-2.6 5.4-2.5 7.1-2.5 7.9-2.5 8.1-2.5 7.3-2.5 5.7-2.5 3.5-2.5 .8-2.6-2.3-2.5-5.2-2.5-7.9-2.5-10.1-2.5-11.5-2.5-12-2.5-11.5-2.5-9.9-2.6-7.3-2.5-4-2.5 0-2.5 4.3-2.5 8.5-2.5 12.4-2.5 15.7-2.5 18z"/><path class="r" d="M36.9 -99.6l1.2-9.2 1.3-8.8 1.2-8.2 1.3-7.5 1.2-6.6 1.3-5.8 1.3-4.8 1.2-3.7 1.3-2.7 1.2-1.6 1.3-.5 1.2 .5 1.3 1.5 1.2 2.5 1.3 3.3 1.3 4 1.2 4.7 1.3 5.2 1.2 5.6 1.3 5.9 1.2 6 1.3 6 1.3 5.9 1.2 5.6 1.3 5.3 1.2 4.8 1.3 4.3 1.2 3.6 1.3 3 1.2 2.2 1.3 1.5 1.3 .8 1.2-.1 1.3-.7 1.2-1.4 1.3-2.1 1.2-2.6 1.3-3.1 1.2-3.5 1.3-3.8 1.3-4 1.2-4.1 1.3-4 1.2-3.9 1.3-3.7 1.2-3.4 1.3-2.9 1.3-2.5 1.2-1.9 1.3-1.3 1.2-.7 1.3 0 1.2 .7 1.3 1.3 1.2 1.9 1.3 2.6 1.3 3.1 1.2 3.5 1.3 4 1.2 4.2 1.3 4.4 1.2 4.5 1.3 4.4 1.3 4.3 1.2 4.1 1.3 3.7 1.2 3.2 1.3 2.7 1.2 2 1.3 1.3 1.2 .5 1.3-.3 1.3-1.2 1.2-2.1 1.3-2.9 1.2-3.7 1.3-4.5 1.2-5.2 1.3-5.8 1.2-6.4 1.3-6.9 1.3-7.1 1.2-7.3 1.3-7.4 1.2-7.2 1.3-7 1.2-6.6 1.3-6 1.3-5.4 1.2-4.5 1.3-3.6 1.2-2.7 1.3-1.5 1.2-.3 1.3 .9 1.2 2.1 1.3 3.4 1.3 4.6 1.2 5.8 1.3 6.8"/><path class="c" d="M162.5 -152.1m0 0l.5-2.5m-1.8-4.3l.6-1.9m-1.8-3.9l.5-1.2m-1.8-3.4l.6-.5m-1.9-2.9l.6 .2m-1.8-2.3l.5 .8m-1.8-1.7l.6 1.5m-1.8-1.2l.5 2.2m-1.8-.7l.6 2.8m-1.8-.1l.5 3.2m-1.8 .4l.6 3.7m-1.8 .8l.5 4.2m-1.8 1.2l.5 4.5m-1.8 1.5l.6 4.8m-1.8 1.8l.5 4.9m-1.8 2.1l.6 5m-1.8 2.2l.5 5.1m-1.8 2.3l.6 5m-1.8 2.3l.5 4.9m-1.8 2.2l.6 4.7m-1.9 2.2l.6 4.4m-1.8 2l.5 4.1m-1.8 1.7l.6 3.8m-1.8 1.4l.5 3.5m-1.8 1l.6 3.1m-1.8 .6l.5 2.7m-1.8 .2l.6 2.3m-1.8-.2l.5 1.8m-1.8-.6l.6 1.4m-1.9-1.1l.6 1.1m-1.8-1.6l.5 .7m-1.8-2l.6 .4m-1.8-2.4l.5 .2m-1.8-2.9l.6 0m-1.8-3.2l.5-.2m-1.8-3.5l.6-.2m-1.8-3.9l.5-.2m-1.8-4.1l.5-.2m-1.8-4.2l.6-.2m-1.8-4.3l.5-.1m-1.8-4.3l.6 .1m-1.8-4.3l.5 .2m-1.8-4.2l.6 .6m-1.8-4.1l.5 .8m-1.8-3.9l.6 1.1m-1.9-3.7l.6 1.4m-1.8-3.3l.5 1.7m-1.8-3l.6 1.9m-1.8-2.6l.5 2.2m-1.8-2.2l.6 2.5m-1.8-1.8l.5 2.7m-1.8-1.4l.6 2.9m-1.8-1l.5 3m-1.8-.5l.6 3.1m-1.9-.2l.6 3.2m-1.8 .2l.5 3.2m-1.8 .5l.6 3.1m-1.8 .8l.5 3m-1.8 1l.6 2.9m-1.8 1.2l.5 2.6m-1.8 1.4l.6 2.3m-1.9 1.5l.6 2m-1.8 1.5l.5 1.6m-1.8 1.5l.6 1.2m-1.8 1.4l.5 .8m-1.8 1.3l.6 .3m-1.8 1.1l.5-.1m-1.8 .8l.6-.4m-1.8 .5l.5-.9m-1.8 .1l.6-1.3m-1.9-.2l.6-1.6m-1.8-.6l.5-2m-1.8-1l.6-2.2m-1.8-1.4l.5-2.4m-1.8-1.9l.6-2.5m-1.8-2.3l.5-2.6m-1.8-2.7l.6-2.5m-1.8-3.1l.5-2.5m-1.8-3.4l.6-2.2m-1.9-3.8l.6-2m-1.8-4l.5-1.6m-1.8-4.3l.6-1.1m-1.8-4.5l.5-.7m-1.8-4.5l.6-.1m-1.8-4.6l.5 .5m-1.8-4.5l.6 1.1m-1.9-4.4l.6 1.8m-1.8-4.3l.5 2.6m-1.8-4.1l.6 3.3m-1.8-3.8l.5 4m-1.8-3.5l.6 4.7m-1.8-3.1l.5 5.4m-1.8-2.7l.6 5.9m-1.8-2.2l.5 6.6m-1.8-1.8l.6 7m-1.9-1.2l.6 7.4m-1.8-.8l.5 7.8m-1.8-.3l.6 8m-1.8 .2l.5 8.1m-1.8 .7l.6 8.1m-1.8 1.1l.5 7.9"/><path class="s" d="M56.3 -150.1L55.7 -151.2M80.1 -77.7L79.6 -77.6M107.8 -118.9L107.2 -120M125.3 -69.9L124.8 -70.6M156.7 -174L156.2 -174.8M54.4 -154.5L55.7 -151.2M78.3 -76.9L79.6 -77.6M123.5 -71.9L124.8 -70.6"/></g>
<g transform="translate(39.8 222.7)"><path class="fgL" d="M37.5 -85.4l2.5-17.7 2.5-16.3 2.5-13.8 2.5-10.6 2.5-6.7 2.5-2.8 2.6 1.2 2.5 4.7 2.5 7.5 2.5 9.7 2.5 10.7 2.5 10.9 2.5 10.1 2.5 8.6 2.6 6.2 2.5 3.7 2.5 .9 2.5-1.8 2.5-4.1 2.5-6 2.5-7 2.5-7.4 2.5-6.9 2.6-5.7 2.5-3.8 2.5-1.7 2.5 .9 2.5 3.4 2.5 5.5 2.5 7.3 2.5 8.3 2.6 8.6 2.5 8 2.5 6.6 2.5 4.4 2.5 1.5 2.5-1.7 2.5-5 2.5-8.2 2.6-11 2.5-13.1 2.5-14.3 2.5-14.5 2.5-13.4 2.5-11.4 2.5-8.2 2.5-4.2 2.6 .4 2.5 5.3 2.5 10-.6 2.3-2.5-11.3-2.5-6.6-2.5-1.7-2.5 3.1-2.5 7.2-2.6 10.7-2.5 13-2.5 14.4-2.5 14.5-2.5 13.5-2.5 11.6-2.5 9-2.5 5.8-2.5 2.4-2.6-.9-2.5-3.8-2.5-6.3-2.5-7.8-2.5-8.7-2.5-8.6-2.5-7.7-2.5-6.1-2.6-3.9-2.5-1.5-2.5 1.2-2.5 3.5-2.5 5.6-2.5 7-2.5 7.7-2.5 7.5-2.6 6.6-2.5 4.9-2.5 2.6-2.5 0-2.5-3-2.5-5.8-2.5-8.2-2.5-10.1-2.5-11.2-2.6-11.4-2.5-10.6-2.5-8.7-2.5-6-2.5-2.5-2.5 1.4-2.5 5.5-2.5 9.6-2.6 13.2-2.5 16-2.5 17.8z"/><path class="r" d="M36.9 -93.1l1.3-9 1.2-8.8 1.3-8.3 1.2-7.7 1.3-7 1.3-6.2 1.2-5.2 1.3-4.4 1.2-3.2 1.3-2.3 1.2-1.2 1.3-.2 1.2 .8 1.3 1.7 1.3 2.6 1.2 3.4 1.3 4.1 1.2 4.6 1.3 5.2 1.2 5.4 1.3 5.6 1.3 5.8 1.2 5.6 1.3 5.6 1.2 5.2 1.3 4.9 1.2 4.4 1.3 3.8 1.2 3.2 1.3 2.6 1.3 1.8 1.2 1.2 1.3 .4 1.2-.4 1.3-1 1.2-1.6 1.3-2.2 1.2-2.7 1.3-3.1 1.3-3.5 1.2-3.7 1.3-3.8 1.2-3.9 1.3-3.8 1.2-3.6 1.3-3.4 1.3-3 1.2-2.6 1.3-2 1.2-1.5 1.3-.9 1.2-.3 1.3 .4 1.2 1.1 1.3 1.6 1.3 2.3 1.2 2.8 1.3 3.3 1.2 3.6 1.3 4.1 1.2 4.2 1.3 4.4 1.2 4.4 1.3 4.3 1.3 4.1 1.2 3.7 1.3 3.4 1.2 2.9 1.3 2.2 1.2 1.6 1.3 .9 1.3 0 1.2-.8 1.3-1.6 1.2-2.5 1.3-3.3 1.2-4.1 1.3-4.9 1.2-5.5 1.3-6.1 1.3-6.6 1.2-6.9 1.3-7.2 1.2-7.3 1.3-7.3 1.2-7.1 1.3-6.7 1.2-6.3 1.3-5.7 1.3-5 1.2-4.1 1.3-3.1 1.2-2.1 1.3-1 1.2 .2 1.3 1.5 1.3 2.7 1.2 3.9 1.3 5.1 1.2 6.2"/><path class="c" d="M162.5 -156m0 0l.6-2.3m-1.8-3.9l.5-1.7m-1.8-3.4l.6-1m-1.8-2.9l.5-.4m-1.8-2.3l.6 .3m-1.9-1.8l.6 1m-1.8-1.2l.5 1.6m-1.8-.6l.6 2.2m-1.8-.1l.5 2.7m-1.8 .4l.6 3.3m-1.8 .8l.5 3.7m-1.8 1.3l.6 4.1m-1.9 1.6l.6 4.4m-1.8 1.9l.5 4.6m-1.8 2.1l.6 4.8m-1.8 2.3l.5 4.9m-1.8 2.4l.6 4.9m-1.8 2.4l.5 4.8m-1.8 2.4l.6 4.7m-1.8 2.2l.5 4.6m-1.8 2l.6 4.3m-1.9 1.8l.6 4m-1.8 1.5l.5 3.7m-1.8 1.2l.6 3.3m-1.8 .8l.5 2.9m-1.8 .4l.6 2.6m-1.8-.1l.5 2.1m-1.8-.5l.6 1.8m-1.8-1l.5 1.4m-1.8-1.4l.6 1m-1.9-1.9l.6 .8m-1.8-2.4l.5 .5m-1.8-2.7l.6 .2m-1.8-3.1l.5 0m-1.8-3.4l.6-.1m-1.8-3.6l.5-.3m-1.8-3.8l.6-.3m-1.9-4l.6-.3m-1.8-4.1l.5-.2m-1.8-4.2l.6 0m-1.8-4.2l.5 .1m-1.8-4.2l.6 .4m-1.8-4l.5 .5m-1.8-3.8l.6 .8m-1.8-3.6l.5 1.1m-1.8-3.4l.6 1.4m-1.9-3l.6 1.6m-1.8-2.7l.5 2m-1.8-2.4l.6 2.2m-1.8-1.9l.5 2.5m-1.8-1.6l.6 2.7m-1.8-1.2l.5 2.8m-1.8-.8l.6 3m-1.8-.4l.5 3.1m-1.8-.1l.5 3.1m-1.8 .3l.6 3.1m-1.8 .5l.5 3m-1.8 .8l.6 2.9m-1.8 1l.5 2.7m-1.8 1.1l.6 2.5m-1.8 1.2l.5 2.2m-1.8 1.3l.6 1.9m-1.9 1.2l.6 1.6m-1.8 1.1l.5 1.2m-1.8 1l.6 .8m-1.8 .8l.5 .4m-1.8 .6l.6 0m-1.8 .4l.5-.5m-1.8 .1l.6-.9m-1.8-.3l.5-1.2m-1.8-.6l.6-1.6m-1.9-1l.6-1.8m-1.8-1.4l.5-2m-1.8-1.8l.6-2.3m-1.8-2.1l.5-2.4m-1.8-2.5l.6-2.4m-1.8-2.8l.5-2.4m-1.8-3.2l.6-2.2m-1.8-3.4l.5-2.1m-1.8-3.7l.5-1.7m-1.8-3.9l.6-1.4m-1.8-4l.5-1m-1.8-4.2l.6-.5m-1.8-4.1l.5 0m-1.8-4.1l.6 .7m-1.8-4.1l.5 1.3m-1.8-3.9l.6 2m-1.9-3.7l.6 2.6m-1.8-3.4l.5 3.3m-1.8-3.1l.6 4m-1.8-2.8l.5 4.7m-1.8-2.4l.6 5.3m-1.8-2.1l.5 5.9m-1.8-1.5l.6 6.4m-1.8-1.2l.5 6.9m-1.8-.7l.6 7.3m-1.9-.3l.6 7.5m-1.8 .2l.5 7.7m-1.8 .6l.6 7.8m-1.8 1l.5 7.7m-1.8 1.3l.6 7.7"/><path class="s" d="M56.3 -150.2L55.8 -151.5M80.2 -79.1L79.6 -79.1M107.8 -119.2L107.3 -120.3M125.4 -70.5L124.8 -71.3M158.1 -173.6L157.5 -173.9M156.2 -175.4L157.5 -173.9"/></g>
<g transform="translate(40.4 224.1)"><path class="fgL" d="M37.4 -79.5l2.5-17.5 2.6-16.5 2.5-14.4 2.5-11.5 2.5-7.9 2.5-4 2.5-.2 2.5 3.4 2.5 6.5 2.5 8.7 2.6 10.2 2.5 10.6 2.5 10 2.5 8.8 2.5 6.8 2.5 4.3 2.5 1.7 2.5-1 2.6-3.4 2.5-5.3 2.5-6.6 2.5-7 2.5-6.8 2.5-5.8 2.5-4.2 2.5-2.1 2.6 .4 2.5 2.8 2.5 5 2.5 6.8 2.5 8.1 2.5 8.5 2.5 8.1 2.5 6.9 2.5 4.9 2.6 2.2 2.5-1 2.5-4.2 2.5-7.5 2.5-10.4 2.5-12.6 2.5-14.2 2.5-14.5 2.6-13.8 2.5-12 2.5-9.2 2.5-5.3 2.5-.8 2.5 3.9 2.5 8.9-.5 2-2.5-10-2.5-5.3-2.6-.4-2.5 4.2-2.5 8.2-2.5 11.4-2.5 13.4-2.5 14.5-2.5 14.3-2.5 13.1-2.6 11-2.5 8.2-2.5 5-2.5 1.7-2.5-1.5-2.5-4.4-2.5-6.6-2.5-8-2.6-8.6-2.5-8.3-2.5-7.3-2.5-5.5-2.5-3.4-2.5-.9-2.5 1.7-2.5 3.8-2.6 5.7-2.5 6.9-2.5 7.4-2.5 7-2.5 6-2.5 4.1-2.5 1.8-2.5-.9-2.5-3.7-2.6-6.2-2.5-8.6-2.5-10.1-2.5-10.9-2.5-10.7-2.5-9.7-2.5-7.5-2.5-4.7-2.6-1.2-2.5 2.8-2.5 6.7-2.5 10.6-2.5 13.8-2.5 16.3-2.5 17.7z"/><path class="r" d="M36.9 -86.8l1.2-9 1.3-8.7 1.2-8.4 1.3-7.9 1.3-7.2 1.2-6.6 1.3-5.7 1.2-4.9 1.3-3.8 1.2-2.9 1.3-1.9 1.2-.9 1.3 .1 1.3 1.1 1.2 1.9 1.3 2.8 1.2 3.4 1.3 4.1 1.2 4.7 1.3 5 1.2 5.3 1.3 5.4 1.3 5.5 1.2 5.4 1.3 5.2 1.2 4.9 1.3 4.5 1.2 4.1 1.3 3.4 1.3 2.8 1.2 2.2 1.3 1.5 1.2 .8 1.3 .1 1.2-.6 1.3-1.2 1.2-1.8 1.3-2.3 1.3-2.8 1.2-3.2 1.3-3.4 1.2-3.6 1.3-3.7 1.2-3.7 1.3-3.5 1.2-3.4 1.3-3 1.3-2.7 1.2-2.2 1.3-1.6 1.2-1.1 1.3-.6 1.2 .2 1.3 .7 1.3 1.4 1.2 2 1.3 2.5 1.2 3 1.3 3.5 1.2 3.8 1.3 4.1 1.2 4.2 1.3 4.3 1.3 4.3 1.2 4.1 1.3 3.9 1.2 3.5 1.3 3.1 1.2 2.5 1.3 1.9 1.3 1.1 1.2 .4 1.3-.4 1.2-1.3 1.3-2 1.2-3 1.3-3.7 1.2-4.5 1.3-5.2 1.3-5.8 1.2-6.3 1.3-6.8 1.2-7.1 1.3-7.2 1.2-7.3 1.3-7.2 1.2-6.9 1.3-6.5 1.3-6 1.2-5.4 1.3-4.5 1.2-3.7 1.3-2.6 1.2-1.6 1.3-.4 1.3 .8 1.2 2 1.3 3.3 1.2 4.4 1.3 5.6"/><path class="c" d="M162.5 -159.7m0 0l.5-2m-1.8-3.6l.6-1.4m-1.8-3l.5-.9m-1.8-2.4l.6-.2m-1.8-1.8l.5 .5m-1.8-1.3l.5 1.1m-1.8-.7l.6 1.7m-1.8-.1l.5 2.3m-1.8 .3l.6 2.8m-1.8 .9l.5 3.3m-1.8 1.2l.6 3.8m-1.8 1.6l.5 4.1m-1.8 1.9l.6 4.4m-1.9 2.1l.6 4.6m-1.8 2.3l.5 4.8m-1.8 2.4l.6 4.9m-1.8 2.4l.5 4.8m-1.8 2.4l.6 4.8m-1.8 2.3l.5 4.7m-1.8 2.1l.6 4.4m-1.8 1.9l.5 4.2m-1.8 1.6l.6 4m-1.9 1.2l.6 3.6m-1.8 .9l.5 3.3m-1.8 .4l.6 2.9m-1.8 .1l.5 2.4m-1.8-.4l.6 2.1m-1.8-.8l.5 1.7m-1.8-1.3l.6 1.4m-1.8-1.8l.5 1m-1.8-2.1l.5 .7m-1.8-2.6l.6 .4m-1.8-2.9l.5 .2m-1.8-3.3l.6 .1m-1.8-3.6l.5-.1m-1.8-3.8l.6-.1m-1.8-4l.5-.2m-1.8-4.1l.6-.2m-1.9-4.1l.6-.1m-1.8-4.1l.5 0m-1.8-4.1l.6 .1m-1.8-3.9l.5 .3m-1.8-3.8l.6 .6m-1.8-3.6l.5 .8m-1.8-3.3l.6 1.1m-1.8-3.1l.5 1.4m-1.8-2.8l.6 1.7m-1.9-2.4l.6 1.9m-1.8-2.1l.5 2.2m-1.8-1.6l.6 2.4m-1.8-1.3l.5 2.6m-1.8-1l.6 2.8m-1.8-.6l.5 3m-1.8-.3l.6 3m-1.9 0l.6 3.1m-1.8 .3l.5 3m-1.8 .5l.6 3m-1.8 .7l.5 2.8m-1.8 .9l.6 2.6m-1.8 1l.5 2.4m-1.8 1l.6 2.2m-1.8 1l.5 1.8m-1.8 1l.6 1.5m-1.9 .8l.6 1.1m-1.8 .7l.5 .8m-1.8 .4l.6 .4m-1.8 .2l.5 0m-1.8-.1l.6-.4m-1.8-.4l.5-.8m-1.8-.7l.6-1.1m-1.8-1.1l.5-1.4m-1.8-1.4l.6-1.7m-1.9-1.7l.6-2m-1.8-2.1l.5-2.1m-1.8-2.4l.6-2.2m-1.8-2.7l.5-2.2m-1.8-3l.6-2.1m-1.8-3.3l.5-2m-1.8-3.5l.6-1.8m-1.9-3.6l.6-1.6m-1.8-3.7l.5-1.3m-1.8-3.7l.6-.9m-1.8-3.8l.5-.3m-1.8-3.8l.6 .2m-1.8-3.6l.5 .7m-1.8-3.5l.6 1.4m-1.8-3.3l.5 2m-1.8-3.1l.6 2.7m-1.9-2.8l.6 3.4m-1.8-2.5l.5 4m-1.8-2.1l.6 4.6m-1.8-1.7l.5 5.2m-1.8-1.4l.6 5.8m-1.8-.9l.5 6.3m-1.8-.6l.6 6.7m-1.8-.1l.5 7m-1.8 .2l.6 7.3m-1.9 .6l.6 7.5m-1.8 .9l.5 7.5m-1.8 1.2l.6 7.5m-1.8 1.5l.5 7.3"/><path class="s" d="M56.3 -150.2L55.7 -151.6M80.1 -80.5L79.6 -80.5M107.8 -119.5L107.2 -120.6M125.3 -71.2L124.8 -71.9M158 -174.5L157.5 -175"/></g>
<g transform="translate(41 225.5)"><path class="fgL" d="M37.4 -73.9l2.5-17.2 2.5-16.7 2.5-14.9 2.5-12.4 2.5-9 2.6-5.3 2.5-1.4 2.5 2.2 2.5 5.4 2.5 7.9 2.5 9.5 2.5 10.3 2.5 10 2.5 9 2.6 7.2 2.5 5 2.5 2.3 2.5-.2 2.5-2.7 2.5-4.6 2.5-6.1 2.5-6.7 2.6-6.8 2.5-5.9 2.5-4.4 2.5-2.5 2.5-.1 2.5 2.2 2.5 4.5 2.5 6.4 2.6 7.8 2.5 8.4 2.5 8.2 2.5 7.2 2.5 5.3 2.5 2.9 2.5-.2 2.5-3.5 2.6-6.8 2.5-9.8 2.5-12.2 2.5-13.9 2.5-14.6 2.5-14.2 2.5-12.6 2.5-10 2.5-6.4 2.6-2 2.5 2.7 2.5 7.6-.6 1.9-2.5-8.9-2.5-3.9-2.5 .8-2.5 5.3-2.5 9.2-2.5 12-2.6 13.8-2.5 14.5-2.5 14.2-2.5 12.6-2.5 10.4-2.5 7.5-2.5 4.2-2.5 1-2.6-2.2-2.5-4.9-2.5-6.9-2.5-8.1-2.5-8.5-2.5-8.1-2.5-6.8-2.5-5-2.5-2.8-2.6-.4-2.5 2.1-2.5 4.2-2.5 5.8-2.5 6.8-2.5 7-2.5 6.6-2.5 5.3-2.6 3.4-2.5 1-2.5-1.7-2.5-4.3-2.5-6.8-2.5-8.8-2.5-10-2.5-10.6-2.6-10.2-2.5-8.7-2.5-6.5-2.5-3.4-2.5 .2-2.5 4-2.5 7.9-2.5 11.5-2.5 14.4-2.6 16.5-2.5 17.5z"/><path class="r" d="M36.8 -80.9l1.3-8.8 1.2-8.7 1.3-8.4 1.3-8.1 1.2-7.5 1.3-6.9 1.2-6.1 1.3-5.4 1.2-4.4 1.3-3.5 1.2-2.5 1.3-1.5 1.3-.6 1.2 .4 1.3 1.3 1.2 2.1 1.3 2.9 1.2 3.6 1.3 4.1 1.2 4.6 1.3 5 1.3 5.2 1.2 5.3 1.3 5.3 1.2 5.1 1.3 4.9 1.2 4.6 1.3 4.2 1.3 3.7 1.2 3.1 1.3 2.5 1.2 1.8 1.3 1.2 1.2 .5 1.3-.2 1.2-.8 1.3-1.5 1.3-1.9 1.2-2.5 1.3-2.8 1.2-3.2 1.3-3.4 1.2-3.5 1.3-3.5 1.2-3.5 1.3-3.3 1.3-3.1 1.2-2.7 1.3-2.4 1.2-1.8 1.3-1.3 1.2-.8 1.3-.1 1.3 .5 1.2 1.1 1.3 1.7 1.2 2.2 1.3 2.8 1.2 3.2 1.3 3.6 1.2 4 1.3 4.1 1.3 4.2 1.2 4.3 1.3 4.2 1.2 3.9 1.3 3.7 1.2 3.2 1.3 2.7 1.2 2.2 1.3 1.4 1.3 .8 1.2-.1 1.3-.9 1.2-1.7 1.3-2.5 1.2-3.3 1.3-4.2 1.3-4.8 1.2-5.6 1.3-6.1 1.2-6.5 1.3-7 1.2-7.2 1.3-7.2 1.2-7.3 1.3-7.1 1.3-6.7 1.2-6.3 1.3-5.7 1.2-5 1.3-4.2 1.2-3.1 1.3-2.2 1.2-1 1.3 .2 1.3 1.3 1.2 2.6 1.3 3.9 1.2 5"/><path class="c" d="M162.4 -163.1m0 0l.6-1.9m-1.8-3.1l.5-1.3m-1.8-2.6l.6-.6m-1.8-2l.5 0m-1.8-1.3l.6 .6m-1.9-.8l.6 1.2m-1.8-.2l.5 1.8m-1.8 .4l.6 2.3m-1.8 .8l.5 2.9m-1.8 1.3l.6 3.3m-1.8 1.7l.5 3.7m-1.8 2l.6 4m-1.8 2.3l.5 4.3m-1.8 2.4l.6 4.6m-1.9 2.5l.6 4.7m-1.8 2.6l.5 4.7m-1.8 2.5l.6 4.8m-1.8 2.4l.5 4.7m-1.8 2.3l.6 4.5m-1.8 2l.5 4.4m-1.8 1.7l.6 4.1m-1.8 1.5l.5 3.8m-1.8 1l.6 3.5m-1.9 .7l.6 3.1m-1.8 .2l.5 2.8m-1.8-.3l.6 2.4m-1.8-.7l.5 2.1m-1.8-1.2l.6 1.7m-1.8-1.6l.5 1.3m-1.8-2.1l.6 1m-1.9-2.4l.6 .6m-1.8-2.8l.5 .4m-1.8-3.1l.6 .2m-1.8-3.4l.5 0m-1.8-3.7l.6-.1m-1.8-3.8l.5-.2m-1.8-4l.6-.2m-1.8-4.1l.5-.1m-1.8-4.1l.6-.1m-1.9-4l.6 0m-1.8-4l.5 .2m-1.8-3.8l.6 .4m-1.8-3.6l.5 .6m-1.8-3.4l.6 .9m-1.8-3.1l.5 1.1m-1.8-2.8l.6 1.4m-1.8-2.5l.5 1.7m-1.8-2.2l.6 1.9m-1.9-1.8l.6 2.2m-1.8-1.4l.5 2.4m-1.8-1.1l.6 2.6m-1.8-.8l.5 2.8m-1.8-.4l.6 2.8m-1.8-.1l.5 2.9m-1.8 .2l.6 2.9m-1.9 .4l.6 2.9m-1.8 .6l.5 2.9m-1.8 .6l.6 2.8m-1.8 .7l.5 2.6m-1.8 .8l.6 2.4m-1.8 .8l.5 2.1m-1.8 .7l.6 1.8m-1.8 .7l.5 1.4m-1.8 .5l.6 1.2m-1.9 .3l.6 .7m-1.8 .1l.5 .3m-1.8-.1l.6-.1m-1.8-.4l.5-.4m-1.8-.8l.6-.7m-1.8-1.1l.5-1.1m-1.8-1.4l.6-1.4m-1.8-1.7l.5-1.6m-1.8-2.1l.5-1.8m-1.8-2.4l.6-1.9m-1.8-2.7l.5-2m-1.8-2.9l.6-2m-1.8-3.1l.5-2m-1.8-3.3l.6-1.9m-1.8-3.4l.5-1.7m-1.8-3.5l.6-1.4m-1.9-3.6l.6-1m-1.8-3.6l.5-.6m-1.8-3.5l.6-.2m-1.8-3.4l.5 .4m-1.8-3.3l.6 .9m-1.8-3l.5 1.5m-1.8-2.8l.6 2.1m-1.8-2.5l.5 2.7m-1.8-2.1l.6 3.3m-1.9-1.8l.6 4m-1.8-1.5l.5 4.6m-1.8-1.1l.6 5.2m-1.8-.8l.5 5.7m-1.8-.3l.6 6.1m-1.8 0l.5 6.6m-1.8 .3l.6 6.9m-1.8 .6l.5 7.1m-1.8 1l.5 7.2m-1.8 1.2l.6 7.3m-1.8 1.4l.5 7.2m-1.8 1.6l.6 7"/><path class="s" d="M57.5 -148.6L56.9 -149.5M80.1 -82L79.5 -81.9M109 -117.8L108.4 -118.7M125.3 -72L124.7 -72.6M158 -175.3L157.4 -175.9M55.7 -151.6L56.9 -149.5M107.2 -120.9L108.4 -118.7"/></g>
<g transform="translate(41.5 226.8)"><path class="fgL" d="M37.4 -68.4l2.5-17 2.6-16.8 2.5-15.5 2.5-13.1 2.5-10 2.5-6.5 2.5-2.6 2.5 1 2.5 4.4 2.6 7 2.5 8.9 2.5 9.9 2.5 10 2.5 9.2 2.5 7.6 2.5 5.6 2.5 3 2.6 .5 2.5-1.9 2.5-4.1 2.5-5.6 2.5-6.4 2.5-6.7 2.5-6 2.5-4.7 2.5-2.8 2.6-.7 2.5 1.8 2.5 4 2.5 6 2.5 7.5 2.5 8.3 2.5 8.3 2.5 7.4 2.6 5.8 2.5 3.4 2.5 .5 2.5-2.8 2.5-6 2.5-9.2 2.5-11.8 2.5-13.7 2.6-14.6 2.5-14.4 2.5-13.2 2.5-10.8 2.5-7.5 2.5-3.2 2.5 1.5 2.5 6.5-.5 1.6-2.5-7.6-2.5-2.7-2.6 2-2.5 6.4-2.5 10-2.5 12.6-2.5 14.2-2.5 14.6-2.5 13.9-2.5 12.2-2.5 9.8-2.6 6.8-2.5 3.5-2.5 .2-2.5-2.9-2.5-5.3-2.5-7.2-2.5-8.2-2.5-8.4-2.6-7.8-2.5-6.4-2.5-4.5-2.5-2.2-2.5 .1-2.5 2.5-2.5 4.4-2.5 5.9-2.6 6.8-2.5 6.7-2.5 6.1-2.5 4.6-2.5 2.7-2.5 .2-2.5-2.3-2.5-5-2.6-7.2-2.5-9-2.5-10-2.5-10.3-2.5-9.5-2.5-7.9-2.5-5.4-2.5-2.2-2.5 1.4-2.6 5.3-2.5 9-2.5 12.4-2.5 14.9-2.5 16.7-2.5 17.2z"/><path class="r" d="M36.9 -75.2l1.2-8.6 1.3-8.6 1.2-8.5 1.3-8.2 1.3-7.7 1.2-7.2 1.3-6.6 1.2-5.8 1.3-4.9 1.2-4.1 1.3-3.1 1.3-2.2 1.2-1.2 1.3-.2 1.2 .7 1.3 1.5 1.2 2.4 1.3 3 1.2 3.7 1.3 4.2 1.3 4.6 1.2 4.9 1.3 5.1 1.2 5.2 1.3 5.1 1.2 4.9 1.3 4.7 1.2 4.3 1.3 3.9 1.3 3.3 1.2 2.8 1.3 2.2 1.2 1.5 1.3 .8 1.2 .2 1.3-.4 1.3-1 1.2-1.7 1.3-2.1 1.2-2.5 1.3-2.9 1.2-3.2 1.3-3.3 1.2-3.4 1.3-3.5 1.3-3.3 1.2-3.1 1.3-2.8 1.2-2.4 1.3-2 1.2-1.5 1.3-1 1.3-.4 1.2 .3 1.3 .8 1.2 1.4 1.3 2 1.2 2.5 1.3 3 1.2 3.4 1.3 3.8 1.3 4 1.2 4.2 1.3 4.2 1.2 4.2 1.3 4 1.2 3.8 1.3 3.4 1.2 2.9 1.3 2.4 1.3 1.8 1.2 1.1 1.3 .3 1.2-.5 1.3-1.4 1.2-2.1 1.3-3 1.3-3.8 1.2-4.5 1.3-5.3 1.2-5.8 1.3-6.4 1.2-6.8 1.3-7.1 1.2-7.3 1.3-7.3 1.3-7.2 1.2-7 1.3-6.6 1.2-6 1.3-5.4 1.2-4.6 1.3-3.7 1.2-2.7 1.3-1.6 1.3-.4 1.2 .7 1.3 2 1.2 3.2 1.3 4.4"/><path class="c" d="M162.5 -166.3m0 0l.5-1.6m-1.8-2.8l.6-1m-1.8-2.2l.5-.5m-1.8-1.5l.6 .2m-1.8-.9l.5 .7m-1.8-.3l.6 1.4m-1.9 .2l.6 1.9m-1.8 .8l.5 2.5m-1.8 1.2l.6 3m-1.8 1.6l.5 3.4m-1.8 2l.6 3.8m-1.8 2.2l.5 4.1m-1.8 2.5l.6 4.4m-1.8 2.6l.5 4.5m-1.8 2.7l.6 4.6m-1.9 2.7l.6 4.7m-1.8 2.6l.5 4.6m-1.8 2.5l.6 4.6m-1.8 2.2l.5 4.4m-1.8 2l.6 4.2m-1.8 1.6l.5 4m-1.8 1.3l.6 3.7m-1.8 .8l.5 3.4m-1.8 .4l.5 3m-1.8 0l.6 2.6m-1.8-.5l.5 2.3m-1.8-.9l.6 1.9m-1.8-1.4l.5 1.5m-1.8-1.8l.6 1.2m-1.8-2.3l.5 .9m-1.8-2.7l.6 .7m-1.9-3.1l.6 .4m-1.8-3.3l.5 .2m-1.8-3.6l.6 0m-1.8-3.8l.5 0m-1.8-4l.6-.1m-1.8-4.1l.5-.1m-1.8-4.1l.6-.1m-1.8-4.1l.5 0m-1.8-4l.6 .1m-1.9-3.9l.6 .3m-1.8-3.7l.5 .5m-1.8-3.5l.6 .7m-1.8-3.2l.5 .9m-1.8-2.9l.6 1.2m-1.8-2.6l.5 1.4m-1.8-2.2l.6 1.6m-1.8-1.9l.5 2m-1.8-1.6l.5 2.2m-1.8-1.2l.6 2.4m-1.8-.9l.5 2.5m-1.8-.5l.6 2.7m-1.8-.3l.5 2.8m-1.8 0l.6 2.9m-1.8 .2l.5 2.9m-1.8 .4l.6 2.9m-1.9 .6l.6 2.8m-1.8 .6l.5 2.7m-1.8 .6l.6 2.5m-1.8 .7l.5 2.3m-1.8 .6l.6 2m-1.8 .5l.5 1.8m-1.8 .3l.6 1.5m-1.8 .2l.5 1m-1.8 0l.6 .7m-1.9-.3l.6 .4m-1.8-.6l.5 0m-1.8-.8l.6-.4m-1.8-1.1l.5-.7m-1.8-1.5l.6-1m-1.8-1.8l.5-1.3m-1.8-2l.6-1.5m-1.9-2.4l.6-1.7m-1.8-2.6l.5-1.8m-1.8-2.9l.6-1.9m-1.8-3l.5-1.9m-1.8-3.2l.6-1.9m-1.8-3.3l.5-1.7m-1.8-3.4l.6-1.5m-1.8-3.4l.5-1.2m-1.8-3.4l.6-.9m-1.9-3.3l.6-.5m-1.8-3.2l.5 0m-1.8-3l.6 .4m-1.8-2.8l.5 1m-1.8-2.5l.6 1.6m-1.8-2.3l.5 2.2m-1.8-2l.6 2.8m-1.8-1.6l.5 3.4m-1.8-1.2l.6 4m-1.9-.9l.6 4.6m-1.8-.5l.5 5.1m-1.8-.2l.6 5.6m-1.8 .2l.5 6m-1.8 .6l.6 6.3m-1.8 .9l.5 6.6m-1.8 1.1l.6 6.9m-1.9 1.3l.6 7m-1.8 1.5l.5 7m-1.8 1.6l.6 7m-1.8 1.6l.5 6.8"/><path class="s" d="M57.5 -148.9L57 -149.9M80.1 -83.3L79.6 -83.3M109 -118.2L108.5 -119.1M126.6 -70.6L126.1 -71.5M159.3 -175.7L158.7 -175.9M124.8 -73.3L126.1 -71.5M157.5 -176.6L158.7 -175.9"/></g>
<g transform="translate(42.1 228.2)"><path class="fgL" d="M37.4 -63.4l2.5-16.6 2.5-16.9 2.5-16 2.5-13.8 2.5-11 2.6-7.5 2.5-3.8 2.5-.1 2.5 3.3 2.5 6.2 2.5 8.3 2.5 9.6 2.5 9.9 2.6 9.3 2.5 8.1 2.5 6 2.5 3.7 2.5 1.2 2.5-1.3 2.5-3.4 2.5-5.1 2.6-6.2 2.5-6.5 2.5-6.1 2.5-4.9 2.5-3.3 2.5-1.1 2.5 1.2 2.5 3.6 2.6 5.6 2.5 7.2 2.5 8.2 2.5 8.3 2.5 7.7 2.5 6.2 2.5 4 2.5 1.2 2.5-2.1 2.6-5.4 2.5-8.5 2.5-11.4 2.5-13.4 2.5-14.6 2.5-14.7 2.5-13.8 2.5-11.5 2.6-8.4 2.5-4.4 2.5 .4 2.5 5.3-.6 1.4-2.5-6.5-2.5-1.5-2.5 3.2-2.5 7.5-2.5 10.8-2.5 13.2-2.5 14.4-2.6 14.6-2.5 13.7-2.5 11.8-2.5 9.2-2.5 6-2.5 2.8-2.5-.5-2.5-3.4-2.6-5.8-2.5-7.4-2.5-8.3-2.5-8.3-2.5-7.5-2.5-6-2.5-4-2.5-1.8-2.6 .7-2.5 2.8-2.5 4.7-2.5 6-2.5 6.7-2.5 6.4-2.5 5.6-2.5 4.1-2.5 1.9-2.6-.5-2.5-3-2.5-5.6-2.5-7.6-2.5-9.2-2.5-10-2.5-9.9-2.5-8.9-2.6-7-2.5-4.4-2.5-1-2.5 2.6-2.5 6.5-2.5 10-2.5 13.1-2.5 15.5-2.6 16.8-2.5 17z"/><path class="r" d="M36.8 -69.8l1.3-8.4 1.2-8.6 1.3-8.5 1.3-8.3 1.2-8 1.3-7.5 1.2-6.9 1.3-6.2 1.2-5.4 1.3-4.6 1.3-3.7 1.2-2.8 1.3-1.8 1.2-.8 1.3 .1 1.2 .9 1.3 1.8 1.2 2.6 1.3 3.2 1.3 3.8 1.2 4.3 1.3 4.6 1.2 4.9 1.3 5 1.2 5.1 1.3 4.9 1.2 4.8 1.3 4.4 1.3 4.1 1.2 3.5 1.3 3.1 1.2 2.5 1.3 1.8 1.2 1.2 1.3 .6 1.3-.1 1.2-.7 1.3-1.2 1.2-1.8 1.3-2.3 1.2-2.6 1.3-3 1.2-3.1 1.3-3.3 1.3-3.4 1.2-3.3 1.3-3.1 1.2-2.9 1.3-2.5 1.2-2.2 1.3-1.6 1.2-1.2 1.3-.6 1.3-.1 1.2 .6 1.3 1.2 1.2 1.7 1.3 2.3 1.2 2.8 1.3 3.2 1.3 3.6 1.2 3.9 1.3 4.1 1.2 4.2 1.3 4.2 1.2 4.1 1.3 3.8 1.2 3.6 1.3 3.1 1.3 2.7 1.2 2 1.3 1.4 1.2 .6 1.3-.1 1.2-1 1.3-1.8 1.2-2.6 1.3-3.4 1.3-4.2 1.2-5 1.3-5.6 1.2-6.2 1.3-6.6 1.2-7.1 1.3-7.2 1.3-7.4 1.2-7.3 1.3-7.1 1.2-6.9 1.3-6.3 1.2-5.8 1.3-5 1.2-4.2 1.3-3.3 1.3-2.1 1.2-1.1 1.3 .2 1.2 1.3 1.3 2.7 1.2 3.8"/><path class="c" d="M162.4 -169.3m0 0l.6-1.4m-1.8-2.4l.5-.9m-1.8-1.8l.6-.2m-1.8-1.1l.5 .3m-1.8-.5l.6 .9m-1.8 .2l.5 1.5m-1.8 .6l.6 2.1m-1.9 1.2l.6 2.5m-1.8 1.7l.5 3m-1.8 2l.6 3.4m-1.8 2.4l.5 3.7m-1.8 2.6l.6 4.1m-1.8 2.8l.5 4.3m-1.8 2.8l.6 4.5m-1.8 2.8l.5 4.6m-1.8 2.8l.6 4.6m-1.9 2.6l.6 4.6m-1.8 2.5l.5 4.4m-1.8 2.2l.6 4.3m-1.8 1.9l.5 4.1m-1.8 1.5l.6 3.9m-1.8 1.1l.5 3.5m-1.8 .7l.6 3.2m-1.9 .2l.6 2.9m-1.8-.3l.5 2.6m-1.8-.8l.6 2.3m-1.8-1.3l.5 1.9m-1.8-1.8l.6 1.6m-1.8-2.2l.5 1.2m-1.8-2.6l.6 .9m-1.8-2.9l.5 .6m-1.8-3.3l.6 .4m-1.9-3.5l.6 .2m-1.8-3.8l.5 .1m-1.8-3.9l.6-.1m-1.8-4l.5-.1m-1.8-4.1l.6-.1m-1.8-4.1l.5-.1m-1.8-4l.6 0m-1.8-3.9l.5 .1m-1.8-3.7l.6 .3m-1.9-3.5l.6 .4m-1.8-3.2l.5 .7m-1.8-3l.6 .9m-1.8-2.6l.5 1.1m-1.8-2.3l.6 1.4m-1.8-2l.5 1.7m-1.8-1.6l.6 1.9m-1.9-1.3l.6 2.1m-1.8-.9l.5 2.3m-1.8-.7l.6 2.6m-1.8-.4l.5 2.6m-1.8-.1l.6 2.8m-1.8 .1l.5 2.8m-1.8 .3l.6 2.9m-1.8 .4l.5 2.8m-1.8 .6l.6 2.7m-1.9 .6l.6 2.6m-1.8 .5l.5 2.5m-1.8 .5l.6 2.2m-1.8 .4l.5 2m-1.8 .3l.6 1.7m-1.8 .1l.5 1.3m-1.8-.1l.6 1.1m-1.8-.4l.5 .7m-1.8-.6l.5 .4m-1.8-1l.6 0m-1.8-1.2l.5-.3m-1.8-1.5l.6-.7m-1.8-1.8l.5-.9m-1.8-2.2l.6-1.1m-1.8-2.4l.5-1.4m-1.8-2.7l.6-1.6m-1.9-2.8l.6-1.7m-1.8-3.1l.5-1.7m-1.8-3.2l.6-1.7m-1.8-3.4l.5-1.6m-1.8-3.4l.6-1.5m-1.8-3.4l.5-1.3m-1.8-3.3l.6-1m-1.8-3.3l.5-.7m-1.8-3.1l.6-.3m-1.9-2.9l.6 .1m-1.8-2.7l.5 .7m-1.8-2.5l.6 1.2m-1.8-2.1l.5 1.7m-1.8-1.8l.6 2.3m-1.8-1.5l.5 2.9m-1.8-1.1l.6 3.5m-1.8-.7l.5 4m-1.8-.3l.5 4.5m-1.8 .1l.6 5m-1.8 .4l.5 5.5m-1.8 .7l.6 5.9m-1.8 1l.5 6.2m-1.8 1.3l.6 6.5m-1.8 1.5l.5 6.7m-1.8 1.6l.6 6.8m-1.9 1.7l.6 6.8m-1.8 1.8l.5 6.6m-1.8 1.8l.6 6.4"/><path class="s" d="M58.7 -147.8L58.2 -148.5M81.3 -83.7L80.8 -84.1M109 -118.7L108.4 -119.6M126.6 -71.1L126 -72M159.2 -176.8L158.7 -177.1M56.9 -150.3L58.2 -148.5M79.5 -84.7L80.8 -84.1"/></g>
<g transform="translate(42.6 229.6)"><path class="fgL" d="M37.4 -58.6l2.6-16.4 2.5-16.9 2.5-16.3 2.5-14.5 2.5-11.9 2.5-8.6 2.5-4.9 2.5-1.1 2.6 2.3 2.5 5.4 2.5 7.7 2.5 9.2 2.5 9.8 2.5 9.5 2.5 8.4 2.5 6.5 2.5 4.4 2.6 1.8 2.5-.6 2.5-2.9 2.5-4.7 2.5-5.9 2.5-6.4 2.5-6.1 2.5-5.2 2.6-3.6 2.5-1.5 2.5 .7 2.5 3.1 2.5 5.2 2.5 6.9 2.5 8.1 2.5 8.4 2.6 7.9 2.5 6.6 2.5 4.5 2.5 1.8 2.5-1.3 2.5-4.7 2.5-8 2.5-10.9 2.5-13.1 2.6-14.6 2.5-15 2.5-14.2 2.5-12.3 2.5-9.3 2.5-5.4 2.5-.8 2.5 4.2-.5 1.2-2.5-5.3-2.5-.4-2.5 4.4-2.6 8.4-2.5 11.5-2.5 13.8-2.5 14.7-2.5 14.6-2.5 13.4-2.5 11.4-2.5 8.5-2.6 5.4-2.5 2.1-2.5-1.2-2.5-4-2.5-6.2-2.5-7.7-2.5-8.3-2.5-8.2-2.5-7.2-2.6-5.6-2.5-3.6-2.5-1.2-2.5 1.1-2.5 3.3-2.5 4.9-2.5 6.1-2.5 6.5-2.6 6.2-2.5 5.1-2.5 3.4-2.5 1.3-2.5-1.2-2.5-3.7-2.5-6-2.5-8.1-2.6-9.3-2.5-9.9-2.5-9.6-2.5-8.3-2.5-6.2-2.5-3.3-2.5 .1-2.5 3.8-2.6 7.5-2.5 11-2.5 13.8-2.5 16-2.5 16.9-2.5 16.6z"/><path class="r" d="M36.9 -64.8l1.2-8.2 1.3-8.4 1.3-8.5 1.2-8.4 1.3-8.2 1.2-7.8 1.3-7.2 1.2-6.6 1.3-5.9 1.2-5.1 1.3-4.2 1.3-3.3 1.2-2.4 1.3-1.4 1.2-.5 1.3 .4 1.2 1.3 1.3 2 1.3 2.8 1.2 3.4 1.3 4 1.2 4.3 1.3 4.7 1.2 4.9 1.3 5 1.2 4.9 1.3 4.8 1.3 4.5 1.2 4.3 1.3 3.8 1.2 3.3 1.3 2.7 1.2 2.2 1.3 1.5 1.2 1 1.3 .2 1.3-.3 1.2-1 1.3-1.4 1.2-2 1.3-2.4 1.2-2.7 1.3-3 1.3-3.2 1.2-3.3 1.3-3.2 1.2-3.2 1.3-2.9 1.2-2.7 1.3-2.2 1.2-1.9 1.3-1.4 1.3-.8 1.2-.3 1.3 .3 1.2 .9 1.3 1.5 1.2 2.1 1.3 2.5 1.3 3.1 1.2 3.4 1.3 3.8 1.2 4 1.3 4.2 1.2 4.2 1.3 4.1 1.2 4 1.3 3.7 1.3 3.3 1.2 2.9 1.3 2.3 1.2 1.7 1.3 1 1.2 .2 1.3-.6 1.2-1.5 1.3-2.3 1.3-3.1 1.2-3.9 1.3-4.6 1.2-5.4 1.3-6 1.2-6.5 1.3-6.9 1.3-7.2 1.2-7.4 1.3-7.4 1.2-7.3 1.3-7.1 1.2-6.7 1.3-6.1 1.2-5.4 1.3-4.7 1.3-3.7 1.2-2.7 1.3-1.7 1.2-.4 1.3 .8 1.2 2 1.3 3.3"/><path class="c" d="M162.5 -172.1m0 0l.5-1.2m-1.8-2.1l.6-.6m-1.8-1.4l.5-.1m-1.8-.7l.6 .5m-1.8-.1l.5 1.1m-1.8 .6l.6 1.6m-1.8 1.1l.5 2.1m-1.8 1.6l.6 2.6m-1.9 2.1l.6 3m-1.8 2.4l.5 3.4m-1.8 2.7l.6 3.8m-1.8 2.9l.5 4m-1.8 3.1l.6 4.2m-1.8 3.1l.5 4.4m-1.8 3l.6 4.5m-1.8 2.9l.5 4.5m-1.8 2.7l.5 4.5m-1.8 2.4l.6 4.4m-1.8 2.1l.5 4.2m-1.8 1.8l.6 4m-1.8 1.4l.5 3.7m-1.8 .9l.6 3.5m-1.8 .4l.5 3.2m-1.8-.1l.6 2.9m-1.9-.6l.6 2.5m-1.8-1l.5 2.1m-1.8-1.5l.6 1.7m-1.8-1.9l.5 1.4m-1.8-2.4l.6 1.1m-1.8-2.8l.5 .9m-1.8-3.2l.6 .6m-1.8-3.5l.5 .4m-1.8-3.7l.6 .2m-1.9-3.9l.6 .1m-1.8-4.1l.5 0m-1.8-4.1l.6-.1m-1.8-4.1l.5-.1m-1.8-4.1l.6 0m-1.8-4l.5 0m-1.8-3.8l.6 .2m-1.8-3.6l.5 .3m-1.8-3.4l.5 .6m-1.8-3.1l.6 .7m-1.8-2.8l.5 1m-1.8-2.5l.6 1.2m-1.8-2.1l.5 1.5m-1.8-1.8l.6 1.7m-1.8-1.4l.5 1.9m-1.8-1.1l.6 2.1m-1.9-.7l.6 2.3m-1.8-.4l.5 2.4m-1.8-.2l.6 2.7m-1.8 0l.5 2.7m-1.8 .2l.6 2.8m-1.8 .4l.5 2.7m-1.8 .5l.6 2.7m-1.8 .6l.5 2.6m-1.8 .6l.6 2.5m-1.9 .5l.6 2.3m-1.8 .4l.5 2.1m-1.8 .3l.6 1.9m-1.8 .1l.5 1.6m-1.8-.2l.6 1.4m-1.8-.4l.5 1m-1.8-.7l.6 .7m-1.9-.9l.6 .3m-1.8-1.3l.5 .1m-1.8-1.6l.6-.3m-1.8-1.9l.5-.6m-1.8-2.1l.6-.9m-1.8-2.4l.5-1.1m-1.8-2.7l.6-1.3m-1.8-3l.5-1.4m-1.8-3.1l.6-1.6m-1.9-3.2l.6-1.6m-1.8-3.3l.5-1.6m-1.8-3.4l.6-1.5m-1.8-3.4l.5-1.3m-1.8-3.4l.6-1.1m-1.8-3.2l.5-.9m-1.8-3.1l.6-.5m-1.8-2.9l.5-.1m-1.8-2.7l.6 .3m-1.9-2.3l.6 .7m-1.8-2l.5 1.3m-1.8-1.7l.6 1.8m-1.8-1.3l.5 2.3m-1.8-.9l.6 2.9m-1.8-.5l.5 3.4m-1.8-.1l.6 3.9m-1.9 .3l.6 4.5m-1.8 .6l.5 4.9m-1.8 1l.6 5.4m-1.8 1.2l.5 5.7m-1.8 1.5l.6 6.1m-1.8 1.7l.5 6.3m-1.8 1.9l.6 6.4m-1.8 2l.5 6.5m-1.8 2l.6 6.4m-1.9 2l.6 6.4m-1.8 1.8l.5 6.2"/><path class="s" d="M58.8 -148.5L58.2 -149.2M81.4 -84.8L80.8 -85.1M109 -119.1L108.5 -120.1M126.6 -71.6L126.1 -72.5M159.3 -177.7L158.7 -178.2"/></g>
<g transform="translate(43.2 231)"><path class="fgL" d="M37.4 -54.1l2.5-16.1 2.5-16.9 2.5-16.6 2.5-15.2 2.6-12.7 2.5-9.5 2.5-6 2.5-2.1 2.5 1.4 2.5 4.6 2.5 7.1 2.5 8.8 2.6 9.7 2.5 9.6 2.5 8.7 2.5 7 2.5 4.9 2.5 2.5 2.5 0 2.5-2.4 2.5-4.2 2.6-5.6 2.5-6.3 2.5-6.2 2.5-5.3 2.5-4 2.5-1.9 2.5 .2 2.5 2.7 2.6 4.8 2.5 6.6 2.5 7.9 2.5 8.5 2.5 8.1 2.5 7 2.5 5 2.5 2.5 2.6-.7 2.5-4.1 2.5-7.3 2.5-10.5 2.5-12.9 2.5-14.5 2.5-15.1 2.5-14.7 2.6-13 2.5-10.2 2.5-6.4 2.5-1.9 2.5 3.1-.6 1-2.5-4.2-2.5 .8-2.5 5.4-2.5 9.3-2.5 12.3-2.5 14.2-2.5 15-2.6 14.6-2.5 13.1-2.5 10.9-2.5 8-2.5 4.7-2.5 1.3-2.5-1.8-2.5-4.5-2.5-6.6-2.6-7.9-2.5-8.4-2.5-8.1-2.5-6.9-2.5-5.2-2.5-3.1-2.5-.7-2.5 1.5-2.6 3.6-2.5 5.2-2.5 6.1-2.5 6.4-2.5 5.9-2.5 4.7-2.5 2.9-2.5 .6-2.6-1.8-2.5-4.4-2.5-6.5-2.5-8.4-2.5-9.5-2.5-9.8-2.5-9.2-2.5-7.7-2.5-5.4-2.6-2.3-2.5 1.1-2.5 4.9-2.5 8.6-2.5 11.9-2.5 14.5-2.5 16.3-2.5 16.9-2.6 16.4z"/><path class="r" d="M36.8 -60l1.3-8 1.3-8.4 1.2-8.4 1.3-8.5 1.2-8.3 1.3-8 1.2-7.6 1.3-6.9 1.2-6.4 1.3-5.5 1.3-4.8 1.2-3.8 1.3-2.9 1.2-2 1.3-1 1.2-.1 1.3 .7 1.3 1.6 1.2 2.4 1.3 3 1.2 3.6 1.3 4.1 1.2 4.5 1.3 4.7 1.2 4.9 1.3 4.9 1.3 4.8 1.2 4.7 1.3 4.4 1.2 4 1.3 3.5 1.2 3 1.3 2.5 1.2 1.9 1.3 1.2 1.3 .6 1.2 0 1.3-.6 1.2-1.2 1.3-1.7 1.2-2.2 1.3-2.5 1.3-2.8 1.2-3.1 1.3-3.2 1.2-3.2 1.3-3.1 1.2-3 1.3-2.7 1.2-2.5 1.3-2 1.3-1.6 1.2-1 1.3-.5 1.2 .1 1.3 .6 1.2 1.3 1.3 1.8 1.2 2.4 1.3 2.8 1.3 3.3 1.2 3.6 1.3 4 1.2 4.1 1.3 4.2 1.2 4.2 1.3 4.1 1.3 3.8 1.2 3.5 1.3 3.1 1.2 2.6 1.3 1.9 1.2 1.3 1.3 .5 1.2-.2 1.3-1.1 1.3-1.9 1.2-2.8 1.3-3.6 1.2-4.4 1.3-5.1 1.2-5.8 1.3-6.3 1.2-6.8 1.3-7.2 1.3-7.4 1.2-7.5 1.3-7.5 1.2-7.3 1.3-6.9 1.2-6.5 1.3-5.8 1.3-5.1 1.2-4.2 1.3-3.2 1.2-2.2 1.3-1 1.2 .2 1.3 1.5 1.2 2.7"/><path class="c" d="M162.4 -174.7m0 0l.6-1m-1.8-1.7l.5-.5m-1.8-1l.6 .1m-1.8-.3l.5 .7m-1.8 .3l.6 1.2m-1.8 1l.5 1.7m-1.8 1.5l.6 2.2m-1.8 2l.5 2.7m-1.8 2.4l.6 3.1m-1.9 2.7l.6 3.5m-1.8 3l.5 3.8m-1.8 3.1l.6 4.1m-1.8 3.2l.5 4.3m-1.8 3.2l.6 4.3m-1.8 3.2l.5 4.4m-1.8 3l.6 4.4m-1.9 2.8l.6 4.3m-1.8 2.5l.5 4.2m-1.8 2.1l.6 4.1m-1.8 1.7l.5 3.9m-1.8 1.2l.6 3.7m-1.8 .7l.5 3.4m-1.8 .2l.6 3m-1.8-.2l.5 2.7m-1.8-.8l.6 2.4m-1.9-1.3l.6 2m-1.8-1.8l.5 1.8m-1.8-2.3l.6 1.4m-1.8-2.7l.5 1.1m-1.8-3l.6 .8m-1.8-3.4l.5 .6m-1.8-3.7l.6 .4m-1.8-3.9l.5 .2m-1.8-4l.6 0m-1.9-4.1l.6 0m-1.8-4.2l.5-.1m-1.8-4.1l.6-.1m-1.8-4l.5 0m-1.8-4l.6 .1m-1.8-3.7l.5 .2m-1.8-3.5l.6 .4m-1.9-3.2l.6 .5m-1.8-2.9l.5 .8m-1.8-2.6l.6 1m-1.8-2.3l.5 1.2m-1.8-1.8l.6 1.4m-1.8-1.5l.5 1.7m-1.8-1.2l.6 1.9m-1.8-.9l.5 2.1m-1.8-.5l.6 2.3m-1.9-.3l.6 2.5m-1.8 0l.5 2.5m-1.8 .2l.6 2.6m-1.8 .4l.5 2.7m-1.8 .4l.6 2.7m-1.8 .5l.5 2.7m-1.8 .5l.6 2.6m-1.8 .5l.5 2.4m-1.8 .4l.5 2.3m-1.8 .2l.6 2.1m-1.8 .1l.5 1.8m-1.8-.1l.6 1.6m-1.8-.4l.5 1.3m-1.8-.7l.6 1m-1.8-1l.5 .7m-1.8-1.3l.6 .4m-1.9-1.6l.6 0m-1.8-1.9l.5-.2m-1.8-2.3l.6-.5m-1.8-2.5l.5-.8m-1.8-2.7l.6-1m-1.8-3l.5-1.2m-1.8-3.2l.6-1.3m-1.8-3.4l.5-1.3m-1.8-3.5l.6-1.4m-1.9-3.5l.6-1.4m-1.8-3.5l.5-1.3m-1.8-3.4l.6-1.1m-1.8-3.4l.5-.9m-1.8-3.2l.6-.6m-1.8-3l.5-.3m-1.8-2.7l.6 0m-1.8-2.4l.5 .5m-1.8-2.1l.5 .9m-1.8-1.6l.6 1.4m-1.8-1.3l.5 1.9m-1.8-.9l.6 2.4m-1.8-.4l.5 2.9m-1.8 0l.6 3.5m-1.8 .3l.5 4m-1.8 .8l.6 4.4m-1.9 1.1l.6 4.9m-1.8 1.5l.5 5.2m-1.8 1.7l.6 5.7m-1.8 1.9l.5 5.9m-1.8 2.1l.6 6.1m-1.8 2.2l.5 6.2m-1.8 2.3l.6 6.2m-1.8 2.2l.5 6.2m-1.8 2.2l.6 6m-1.9 2l.6 5.9"/><path class="s" d="M60 -147.8L59.5 -148.3M81.4 -85.8L80.8 -86.2M110.2 -117.9L109.7 -118.7M126.6 -72.2L126 -73M160.5 -178.8L159.9 -178.9M58.2 -149.9L59.5 -148.3M108.4 -120.5L109.7 -118.7M158.7 -179.1L159.9 -178.9"/></g>
<g transform="translate(43.7 232.4)"><path class="fgL" d="M37.5 -50l2.5-15.6 2.5-16.9 2.5-16.9 2.5-15.7 2.5-13.5 2.5-10.4 2.5-6.9 2.5-3.2 2.6 .5 2.5 3.8 2.5 6.6 2.5 8.4 2.5 9.5 2.5 9.7 2.5 8.9 2.5 7.5 2.6 5.5 2.5 3 2.5 .6 2.5-1.8 2.5-3.8 2.5-5.3 2.5-6.2 2.5-6.2 2.6-5.5 2.5-4.3 2.5-2.4 2.5-.1 2.5 2.2 2.5 4.4 2.5 6.4 2.5 7.7 2.5 8.5 2.6 8.3 2.5 7.3 2.5 5.6 2.5 3 2.5 0 2.5-3.4 2.5-6.8 2.5-10 2.6-12.6 2.5-14.4 2.5-15.3 2.5-15.1 2.5-13.6 2.5-11 2.5-7.4 2.5-3 2.6 2-.6 .8-2.5-3.1-2.5 1.9-2.5 6.4-2.5 10.2-2.6 13-2.5 14.7-2.5 15.1-2.5 14.5-2.5 12.9-2.5 10.5-2.5 7.3-2.5 4.1-2.6 .7-2.5-2.5-2.5-5-2.5-7-2.5-8.1-2.5-8.5-2.5-7.9-2.5-6.6-2.6-4.8-2.5-2.7-2.5-.2-2.5 1.9-2.5 4-2.5 5.3-2.5 6.2-2.5 6.3-2.6 5.6-2.5 4.2-2.5 2.4-2.5 0-2.5-2.5-2.5-4.9-2.5-7-2.5-8.7-2.5-9.6-2.6-9.7-2.5-8.8-2.5-7.1-2.5-4.6-2.5-1.4-2.5 2.1-2.5 6-2.5 9.5-2.6 12.7-2.5 15.2-2.5 16.6-2.5 16.9-2.5 16.1z"/><path class="r" d="M36.9 -55.5l1.3-7.9 1.2-8.2 1.3-8.4 1.2-8.5 1.3-8.4 1.2-8.2 1.3-7.8 1.2-7.4 1.3-6.7 1.3-6 1.2-5.2 1.3-4.3 1.2-3.5 1.3-2.5 1.2-1.5 1.3-.6 1.2 .2 1.3 1.2 1.3 1.9 1.2 2.7 1.3 3.3 1.2 3.8 1.3 4.3 1.2 4.5 1.3 4.8 1.3 4.9 1.2 4.9 1.3 4.7 1.2 4.5 1.3 4.2 1.2 3.7 1.3 3.3 1.2 2.8 1.3 2.1 1.3 1.6 1.2 .9 1.3 .3 1.2-.3 1.3-.9 1.2-1.5 1.3-1.9 1.2-2.3 1.3-2.7 1.3-2.9 1.2-3.1 1.3-3.2 1.2-3.1 1.3-3.1 1.2-2.8 1.3-2.5 1.3-2.2 1.2-1.8 1.3-1.2 1.2-.7 1.3-.2 1.2 .4 1.3 1.1 1.2 1.6 1.3 2.1 1.3 2.7 1.2 3.1 1.3 3.5 1.2 3.9 1.3 4 1.2 4.2 1.3 4.3 1.3 4.1 1.2 4 1.3 3.7 1.2 3.3 1.3 2.8 1.2 2.2 1.3 1.6 1.2 .9 1.3 0 1.3-.7 1.2-1.6 1.3-2.5 1.2-3.2 1.3-4.1 1.2-4.9 1.3-5.6 1.2-6.2 1.3-6.7 1.3-7.1 1.2-7.4 1.3-7.6 1.2-7.5 1.3-7.5 1.2-7.2 1.3-6.8 1.3-6.2 1.2-5.5 1.3-4.7 1.2-3.7 1.3-2.7 1.2-1.5 1.3-.4 1.2 .9 1.3 2.2"/><path class="c" d="M162.5 -177.1m0 0l.6-.8m-1.9-1.4l.6-.2m-1.8-.7l.5 .3m-1.8 .1l.6 .8m-1.8 .7l.5 1.4m-1.8 1.3l.6 1.9m-1.8 1.8l.5 2.4m-1.8 2.3l.6 2.8m-1.8 2.7l.5 3.2m-1.8 3l.5 3.5m-1.8 3.3l.6 3.8m-1.8 3.4l.5 4m-1.8 3.5l.6 4.2m-1.8 3.3l.5 4.4m-1.8 3.2l.6 4.4m-1.8 3l.5 4.4m-1.8 2.7l.6 4.3m-1.9 2.4l.6 4.2m-1.8 2l.5 4m-1.8 1.6l.6 3.8m-1.8 1.1l.5 3.5m-1.8 .6l.6 3.2m-1.8 0l.5 3m-1.8-.5l.6 2.6m-1.8-1l.5 2.3m-1.8-1.6l.6 2m-1.9-2l.6 1.6m-1.8-2.5l.5 1.3m-1.8-2.9l.6 1.1m-1.8-3.3l.5 .8m-1.8-3.6l.6 .5m-1.8-3.8l.5 .3m-1.8-4l.6 .2m-1.8-4.2l.5 .1m-1.8-4.2l.5 0m-1.8-4.3l.6 0m-1.8-4.2l.5 0m-1.8-4l.6 0m-1.8-3.9l.5 .2m-1.8-3.7l.6 .3m-1.8-3.4l.5 .4m-1.8-3.1l.6 .6m-1.9-2.7l.6 .8m-1.8-2.4l.5 1m-1.8-2.1l.6 1.3m-1.8-1.7l.5 1.5m-1.8-1.3l.6 1.6m-1.8-.9l.5 1.9m-1.8-.7l.6 2.1m-1.8-.3l.5 2.2m-1.8 0l.6 2.4m-1.9 .1l.6 2.5m-1.8 .3l.5 2.6m-1.8 .5l.6 2.6m-1.8 .5l.5 2.6m-1.8 .6l.6 2.5m-1.8 .6l.5 2.5m-1.8 .4l.6 2.4m-1.9 .3l.6 2.2m-1.8 .1l.5 2m-1.8-.1l.6 1.8m-1.8-.3l.5 1.5m-1.8-.6l.6 1.2m-1.8-.9l.5 .9m-1.8-1.2l.6 .6m-1.8-1.5l.5 .3m-1.8-1.9l.6 .1m-1.9-2.2l.6-.3m-1.8-2.5l.5-.5m-1.8-2.8l.6-.7m-1.8-3l.5-1m-1.8-3.2l.6-1.1m-1.8-3.4l.5-1.2m-1.8-3.5l.6-1.3m-1.8-3.6l.5-1.3m-1.8-3.6l.6-1.2m-1.9-3.6l.6-1.1m-1.8-3.4l.5-1m-1.8-3.3l.6-.7m-1.8-3.1l.5-.5m-1.8-2.8l.6-.2m-1.8-2.5l.5 .2m-1.8-2.1l.6 .6m-1.9-1.8l.6 1.1m-1.8-1.3l.5 1.5m-1.8-.9l.6 2m-1.8-.5l.5 2.6m-1.8-.1l.6 3.1m-1.8 .4l.5 3.5m-1.8 .8l.6 4m-1.8 1.2l.5 4.4m-1.8 1.6l.6 4.8m-1.9 1.9l.6 5.2m-1.8 2.2l.5 5.4m-1.8 2.4l.6 5.7m-1.8 2.5l.5 5.9m-1.8 2.5l.6 6m-1.8 2.5l.5 6m-1.8 2.4l.6 6m-1.8 2.2l.5 5.8m-1.8 2.1l.6 5.5"/><path class="s" d="M60.1 -148.6L59.5 -149.2M81.4 -86.9L80.9 -87.2M110.3 -118.5L109.7 -119.3M127.9 -70.3L127.3 -71.4M160.5 -179.9L160 -180.2M126.1 -73.6L127.3 -71.4"/></g>
<g transform="translate(44.3 233.8)"><path class="fgL" d="M37.4 -46.1l2.5-15.2 2.5-16.8 2.5-17.1 2.6-16.2 2.5-14.2 2.5-11.3 2.5-7.8 2.5-4.1 2.5-.4 2.5 3.1 2.5 5.9 2.5 8.1 2.6 9.3 2.5 9.7 2.5 9.2 2.5 7.9 2.5 5.9 2.5 3.7 2.5 1.1 2.5-1.3 2.6-3.4 2.5-5 2.5-6 2.5-6.3 2.5-5.7 2.5-4.5 2.5-2.8 2.5-.6 2.6 1.8 2.5 4.1 2.5 6 2.5 7.7 2.5 8.4 2.5 8.5 2.5 7.7 2.5 6 2.6 3.6 2.5 .6 2.5-2.8 2.5-6.2 2.5-9.5 2.5-12.3 2.5-14.3 2.5-15.5 2.5-15.4 2.6-14.2 2.5-11.8 2.5-8.3 2.5-4 2.5 .9-.5 .6-2.6-2-2.5 3-2.5 7.4-2.5 11-2.5 13.6-2.5 15.1-2.5 15.3-2.5 14.4-2.6 12.6-2.5 10-2.5 6.8-2.5 3.4-2.5 0-2.5-3-2.5-5.6-2.5-7.3-2.6-8.3-2.5-8.5-2.5-7.7-2.5-6.4-2.5-4.4-2.5-2.2-2.5 .1-2.5 2.4-2.5 4.3-2.6 5.5-2.5 6.2-2.5 6.2-2.5 5.3-2.5 3.8-2.5 1.8-2.5-.6-2.5-3-2.6-5.5-2.5-7.5-2.5-8.9-2.5-9.7-2.5-9.5-2.5-8.4-2.5-6.6-2.5-3.8-2.6-.5-2.5 3.2-2.5 6.9-2.5 10.4-2.5 13.5-2.5 15.7-2.5 16.9-2.5 16.9-2.5 15.6z"/><path class="r" d="M36.9 -51.4l1.2-7.6 1.3-8 1.2-8.4 1.3-8.5 1.2-8.5 1.3-8.4 1.2-8.1 1.3-7.6 1.3-7.1 1.2-6.4 1.3-5.6 1.2-4.8 1.3-3.9 1.2-3 1.3-2.1 1.2-1.1 1.3-.2 1.3 .7 1.2 1.5 1.3 2.3 1.2 3 1.3 3.6 1.2 4 1.3 4.4 1.3 4.7 1.2 4.8 1.3 4.9 1.2 4.8 1.3 4.6 1.2 4.3 1.3 4 1.2 3.5 1.3 3 1.3 2.5 1.2 1.8 1.3 1.2 1.2 .6 1.3 0 1.2-.6 1.3-1.2 1.2-1.7 1.3-2.1 1.3-2.5 1.2-2.8 1.3-3.1 1.2-3.1 1.3-3.1 1.2-3.1 1.3-2.9 1.3-2.6 1.2-2.4 1.3-1.9 1.2-1.4 1.3-1 1.2-.3 1.3 .2 1.2 .8 1.3 1.4 1.3 1.9 1.2 2.5 1.3 3 1.2 3.4 1.3 3.7 1.2 4 1.3 4.2 1.2 4.3 1.3 4.2 1.3 4.1 1.2 3.8 1.3 3.5 1.2 3.1 1.3 2.5 1.2 1.8 1.3 1.2 1.3 .4 1.2-.4 1.3-1.3 1.2-2.1 1.3-3 1.2-3.8 1.3-4.6 1.2-5.4 1.3-6 1.3-6.6 1.2-7 1.3-7.4 1.2-7.6 1.3-7.7 1.2-7.7 1.3-7.4 1.2-7.1 1.3-6.5 1.3-5.9 1.2-5.1 1.3-4.2 1.2-3.2 1.3-2.1 1.2-.9 1.3 .4 1.3 1.6"/><path class="c" d="M162.5 -179.3m0 0l.5-.6m-1.8-1l.6-.1m-1.9-.3l.6 .5m-1.8 .4l.5 1m-1.8 1.1l.6 1.5m-1.8 1.7l.5 2m-1.8 2.2l.6 2.4m-1.8 2.7l.5 2.9m-1.8 3l.6 3.2m-1.9 3.3l.6 3.6m-1.8 3.5l.5 3.8m-1.8 3.6l.6 4.1m-1.8 3.6l.5 4.1m-1.8 3.6l.6 4.2m-1.8 3.4l.5 4.3m-1.8 3.1l.6 4.2m-1.8 2.8l.5 4.2m-1.8 2.4l.6 4.1m-1.9 1.9l.6 3.9m-1.8 1.5l.5 3.6m-1.8 1l.6 3.4m-1.8 .4l.5 3.1m-1.8-.1l.6 2.8m-1.8-.7l.5 2.5m-1.8-1.2l.6 2.2m-1.8-1.8l.5 1.9m-1.8-2.3l.6 1.6m-1.9-2.8l.6 1.3m-1.8-3.1l.5 1m-1.8-3.5l.6 .7m-1.8-3.8l.5 .6m-1.8-4.1l.6 .4m-1.8-4.2l.5 .2m-1.8-4.3l.6 .1m-1.9-4.3l.6 0m-1.8-4.3l.5 0m-1.8-4.2l.6 .1m-1.8-4.1l.5 .1m-1.8-3.8l.6 .1m-1.8-3.5l.5 .3m-1.8-3.3l.6 .5m-1.8-3l.5 .6m-1.8-2.5l.6 .8m-1.9-2.2l.6 1m-1.8-1.8l.5 1.2m-1.8-1.4l.6 1.4m-1.8-1.1l.5 1.7m-1.8-.7l.6 1.8m-1.8-.4l.5 2.1m-1.8-.2l.6 2.3m-1.8 .1l.5 2.3m-1.8 .3l.5 2.5m-1.8 .4l.6 2.5m-1.8 .6l.5 2.5m-1.8 .6l.6 2.6m-1.8 .5l.5 2.5m-1.8 .6l.6 2.4m-1.8 .4l.5 2.2m-1.8 .3l.6 2.1m-1.9 0l.6 1.9m-1.8-.2l.5 1.7m-1.8-.5l.6 1.4m-1.8-.8l.5 1.2m-1.8-1.2l.6 .9m-1.8-1.5l.5 .7m-1.8-1.9l.6 .4m-1.8-2.2l.5 0m-1.8-2.5l.6-.2m-1.9-2.8l.6-.4m-1.8-3.1l.5-.6m-1.8-3.4l.6-.8m-1.8-3.5l.5-.9m-1.8-3.7l.6-1.1m-1.8-3.7l.5-1.1m-1.8-3.8l.6-1.1m-1.8-3.7l.5-1m-1.8-3.7l.5-.9m-1.8-3.5l.6-.8m-1.8-3.2l.5-.6m-1.8-3l.6-.3m-1.8-2.7l.5 .1m-1.8-2.4l.6 .4m-1.8-1.9l.5 .8m-1.8-1.5l.6 1.2m-1.9-1l.6 1.7m-1.8-.6l.5 2.1m-1.8 0l.6 2.6m-1.8 .4l.5 3m-1.8 .9l.6 3.5m-1.8 1.3l.5 4m-1.8 1.6l.6 4.4m-1.8 2l.5 4.8m-1.8 2.3l.6 5.1m-1.9 2.5l.6 5.4m-1.8 2.7l.5 5.6m-1.8 2.8l.6 5.7m-1.8 2.8l.5 5.8m-1.8 2.7l.6 5.8m-1.8 2.6l.5 5.7m-1.8 2.3l.6 5.6m-1.8 2l.5 5.3"/><path class="s" d="M60 -149.2L59.5 -150M82.6 -86.4L82.1 -87.1M110.3 -119.1L109.7 -119.9M127.8 -70.7L127.3 -71.7M161.8 -181L161.2 -180.9M80.8 -88.3L82.1 -87.1M159.9 -181.3L161.2 -180.9"/></g>
<g transform="translate(44.8 235.1)"><path class="fgL" d="M37.5 -42.4l2.5-14.8 2.5-16.7 2.5-17.2 2.5-16.6 2.5-14.8 2.5-12.1 2.5-8.8 2.6-5 2.5-1.2 2.5 2.4 2.5 5.3 2.5 7.7 2.5 9.2 2.5 9.7 2.5 9.4 2.6 8.2 2.5 6.4 2.5 4.2 2.5 1.6 2.5-.8 2.5-3 2.5-4.7 2.5-5.9 2.5-6.2 2.6-5.9 2.5-4.8 2.5-3.1 2.5-1 2.5 1.4 2.5 3.7 2.5 5.8 2.5 7.4 2.6 8.5 2.5 8.6 2.5 8 2.5 6.4 2.5 4.1 2.5 1.3 2.5-2.2 2.5-5.6 2.6-9 2.5-12 2.5-14.2 2.5-15.5 2.5-15.7 2.5-14.8 2.5-12.5 2.5-9.3 2.5-5 2.6 0-.6 .3-2.5-.9-2.5 4-2.5 8.3-2.5 11.8-2.6 14.2-2.5 15.4-2.5 15.5-2.5 14.3-2.5 12.3-2.5 9.5-2.5 6.2-2.5 2.8-2.5-.6-2.6-3.6-2.5-6-2.5-7.7-2.5-8.5-2.5-8.4-2.5-7.7-2.5-6-2.5-4.1-2.6-1.8-2.5 .6-2.5 2.8-2.5 4.5-2.5 5.7-2.5 6.3-2.5 6-2.5 5-2.6 3.4-2.5 1.3-2.5-1.1-2.5-3.7-2.5-5.9-2.5-7.9-2.5-9.2-2.5-9.7-2.6-9.3-2.5-8.1-2.5-5.9-2.5-3.1-2.5 .4-2.5 4.1-2.5 7.8-2.5 11.3-2.5 14.2-2.6 16.2-2.5 17.1-2.5 16.8-2.5 15.2z"/><path class="r" d="M36.9 -47.4l1.3-7.3 1.2-7.9 1.3-8.3 1.2-8.5 1.3-8.6 1.2-8.5 1.3-8.3 1.3-7.9 1.2-7.4 1.3-6.8 1.2-6 1.3-5.3 1.2-4.4 1.3-3.4 1.2-2.6 1.3-1.5 1.3-.7 1.2 .3 1.3 1.1 1.2 2 1.3 2.6 1.2 3.3 1.3 3.8 1.2 4.3 1.3 4.6 1.3 4.7 1.2 4.9 1.3 4.8 1.2 4.8 1.3 4.4 1.2 4.2 1.3 3.7 1.3 3.2 1.2 2.7 1.3 2.2 1.2 1.5 1.3 .8 1.2 .3 1.3-.4 1.2-.9 1.3-1.5 1.3-1.9 1.2-2.4 1.3-2.6 1.2-3 1.3-3 1.2-3.2 1.3-3.1 1.2-2.9 1.3-2.8 1.3-2.4 1.2-2.1 1.3-1.7 1.2-1.1 1.3-.6 1.2 0 1.3 .6 1.3 1.2 1.2 1.7 1.3 2.4 1.2 2.8 1.3 3.2 1.2 3.7 1.3 4 1.2 4.1 1.3 4.3 1.3 4.3 1.2 4.2 1.3 4 1.2 3.7 1.3 3.2 1.2 2.8 1.3 2.1 1.3 1.5 1.2 .7 1.3-.1 1.2-1 1.3-1.8 1.2-2.7 1.3-3.5 1.2-4.4 1.3-5.1 1.3-5.8 1.2-6.5 1.3-7 1.2-7.3 1.3-7.7 1.2-7.8 1.3-7.7 1.2-7.7 1.3-7.3 1.3-6.9 1.2-6.2 1.3-5.6 1.2-4.6 1.3-3.7 1.2-2.6 1.3-1.4 1.3-.2 1.2 1.1"/><path class="c" d="M162.5 -181.2m0 0l.6-.3m-1.8-.8l.5 .2m-1.8 0l.5 .6m-1.8 .8l.6 1.2m-1.8 1.4l.5 1.6m-1.8 2.1l.6 2.1m-1.8 2.5l.5 2.6m-1.8 3l.6 2.9m-1.8 3.3l.5 3.3m-1.8 3.6l.6 3.6m-1.9 3.7l.6 3.9m-1.8 3.8l.5 4m-1.8 3.7l.6 4.2m-1.8 3.6l.5 4.2m-1.8 3.5l.6 4.2m-1.8 3.1l.5 4.2m-1.8 2.8l.6 4.1m-1.8 2.4l.5 3.9m-1.8 1.9l.6 3.8m-1.9 1.3l.6 3.6m-1.8 .8l.5 3.3m-1.8 .2l.6 3m-1.8-.3l.5 2.7m-1.8-.9l.6 2.4m-1.8-1.4l.5 2.1m-1.8-2l.6 1.7m-1.8-2.4l.5 1.4m-1.8-2.9l.5 1.2m-1.8-3.3l.6 .9m-1.8-3.7l.5 .7m-1.8-3.9l.6 .5m-1.8-4.2l.5 .3m-1.8-4.3l.6 .2m-1.8-4.4l.5 .1m-1.8-4.4l.6 .1m-1.9-4.4l.6 .1m-1.8-4.2l.5 0m-1.8-4l.6 .1m-1.8-3.8l.5 .3m-1.8-3.5l.6 .3m-1.8-3.1l.5 .5m-1.8-2.9l.6 .7m-1.8-2.4l.5 .9m-1.8-2.1l.6 1.1m-1.9-1.7l.6 1.3m-1.8-1.3l.5 1.5m-1.8-.9l.6 1.7m-1.8-.6l.5 1.9m-1.8-.2l.6 2m-1.8 .1l.5 2.1m-1.8 .3l.6 2.3m-1.9 .5l.6 2.4m-1.8 .5l.5 2.5m-1.8 .6l.6 2.5m-1.8 .7l.5 2.4m-1.8 .6l.6 2.5m-1.8 .5l.5 2.3m-1.8 .3l.6 2.2m-1.8 .2l.5 2m-1.8-.1l.6 1.9m-1.9-.4l.6 1.6m-1.8-.7l.5 1.4m-1.8-1l.6 1.1m-1.8-1.4l.5 .9m-1.8-1.7l.6 .6m-1.8-2.1l.5 .3m-1.8-2.5l.6 .1m-1.8-2.8l.5-.1m-1.8-3.1l.6-.4m-1.9-3.3l.6-.6m-1.8-3.6l.5-.7m-1.8-3.7l.6-.9m-1.8-3.9l.5-.9m-1.8-3.9l.6-1m-1.8-3.9l.5-.9m-1.8-3.8l.6-.9m-1.9-3.7l.6-.8m-1.8-3.5l.5-.6m-1.8-3.2l.6-.4m-1.8-2.9l.5-.1m-1.8-2.5l.6 .2m-1.8-2.2l.5 .6m-1.8-1.7l.6 .9m-1.8-1.2l.5 1.4m-1.8-.7l.6 1.7m-1.9-.2l.6 2.3m-1.8 .3l.5 2.6m-1.8 .8l.6 3.1m-1.8 1.3l.5 3.6m-1.8 1.7l.6 3.9m-1.8 2.1l.5 4.4m-1.8 2.4l.6 4.7m-1.8 2.7l.5 5m-1.8 2.9l.6 5.2m-1.9 3.1l.6 5.4m-1.8 3.1l.5 5.5m-1.8 3.1l.6 5.5m-1.8 3l.5 5.5m-1.8 2.8l.6 5.4m-1.8 2.5l.5 5.2m-1.8 2.1l.6 5"/><path class="s" d="M61.3 -148.8L60.8 -149.4M82.7 -87.1L82.1 -87.7M111.6 -118L111 -118.7M127.9 -71.1L127.3 -72M161.8 -182.1L161.3 -182.3M59.5 -150.5L60.8 -149.4M109.8 -120.4L111 -118.7"/></g>
<g transform="translate(45.4 236.5)"><path class="fgL" d="M37.4 -39.1l2.5-14.4 2.5-16.5 2.5-17.3 2.6-17 2.5-15.3 2.5-12.9 2.5-9.5 2.5-5.9 2.5-2 2.5 1.6 2.5 4.8 2.6 7.3 2.5 9 2.5 9.7 2.5 9.6 2.5 8.5 2.5 6.8 2.5 4.7 2.5 2.1 2.6-.3 2.5-2.6 2.5-4.5 2.5-5.7 2.5-6.2 2.5-6 2.5-5.1 2.5-3.4 2.6-1.4 2.5 1 2.5 3.3 2.5 5.5 2.5 7.3 2.5 8.4 2.5 8.8 2.5 8.2 2.5 6.9 2.6 4.7 2.5 1.8 2.5-1.6 2.5-5 2.5-8.6 2.5-11.6 2.5-14 2.5-15.6 2.6-16 2.5-15.2 2.5-13.3 2.5-10.1 2.5-5.9 2.5-1.1-.5 .2-2.6 0-2.5 5-2.5 9.3-2.5 12.5-2.5 14.8-2.5 15.7-2.5 15.5-2.5 14.2-2.5 12-2.6 9-2.5 5.6-2.5 2.2-2.5-1.3-2.5-4.1-2.5-6.4-2.5-8-2.5-8.6-2.6-8.5-2.5-7.4-2.5-5.8-2.5-3.7-2.5-1.4-2.5 1-2.5 3.1-2.5 4.8-2.6 5.9-2.5 6.2-2.5 5.9-2.5 4.7-2.5 3-2.5 .8-2.5-1.6-2.5-4.2-2.5-6.4-2.6-8.2-2.5-9.4-2.5-9.7-2.5-9.2-2.5-7.7-2.5-5.3-2.5-2.4-2.5 1.2-2.6 5-2.5 8.8-2.5 12.1-2.5 14.8-2.5 16.6-2.5 17.2-2.5 16.7-2.5 14.8z"/><path class="r" d="M36.9 -43.8l1.2-7.1 1.3-7.7 1.2-8.2 1.3-8.5 1.2-8.6 1.3-8.6 1.3-8.5 1.2-8.1 1.3-7.7 1.2-7.1 1.3-6.5 1.2-5.6 1.3-4.9 1.2-3.9 1.3-2.9 1.3-2.1 1.2-1 1.3-.2 1.2 .8 1.3 1.6 1.2 2.3 1.3 3 1.2 3.6 1.3 4.1 1.3 4.5 1.2 4.7 1.3 4.8 1.2 4.9 1.3 4.8 1.2 4.6 1.3 4.3 1.3 3.9 1.2 3.5 1.3 2.9 1.2 2.4 1.3 1.8 1.2 1.1 1.3 .5 1.2-.1 1.3-.7 1.3-1.2 1.2-1.8 1.3-2.2 1.2-2.5 1.3-2.8 1.2-3.1 1.3-3.1 1.2-3.1 1.3-3 1.3-2.9 1.2-2.6 1.3-2.2 1.2-1.8 1.3-1.3 1.2-.8 1.3-.2 1.3 .4 1.2 1 1.3 1.5 1.2 2.2 1.3 2.6 1.2 3.2 1.3 3.5 1.2 3.9 1.3 4.2 1.3 4.3 1.2 4.3 1.3 4.3 1.2 4.1 1.3 3.9 1.2 3.4 1.3 3 1.2 2.4 1.3 1.7 1.3 1 1.2 .3 1.3-.7 1.2-1.5 1.3-2.4 1.2-3.2 1.3-4.1 1.3-4.9 1.2-5.7 1.3-6.3 1.2-6.9 1.3-7.3 1.2-7.7 1.3-7.8 1.2-7.9 1.3-7.8 1.3-7.6 1.2-7.2 1.3-6.6 1.2-5.9 1.3-5.1 1.2-4.2 1.3-3 1.2-2 1.3-.6 1.3 .6"/><path class="c" d="M162.5 -182.9m0 0l.5-.2m-1.8-.4l.6 .3m-1.9 .3l.6 .9m-1.8 1.1l.5 1.3m-1.8 1.7l.6 1.8m-1.8 2.4l.5 2.2m-1.8 2.9l.6 2.6m-1.8 3.3l.5 3m-1.8 3.6l.6 3.4m-1.8 3.8l.5 3.6m-1.8 4l.6 3.8m-1.9 4l.6 4m-1.8 3.9l.5 4.1m-1.8 3.7l.6 4.2m-1.8 3.5l.5 4.2m-1.8 3.1l.6 4.1m-1.8 2.8l.5 4m-1.8 2.3l.6 3.9m-1.8 1.8l.5 3.6m-1.8 1.3l.6 3.4m-1.9 .7l.6 3.2m-1.8 0l.5 2.9m-1.8-.5l.6 2.6m-1.8-1.1l.5 2.3m-1.8-1.6l.6 2m-1.8-2.3l.5 1.7m-1.8-2.7l.6 1.5m-1.9-3.2l.6 1.1m-1.8-3.5l.5 .9m-1.8-3.9l.6 .7m-1.8-4.1l.5 .4m-1.8-4.3l.6 .3m-1.8-4.4l.5 .2m-1.8-4.5l.6 .1m-1.8-4.4l.5 0m-1.8-4.3l.6 0m-1.9-4.2l.6 .1m-1.8-4l.5 .2m-1.8-3.7l.6 .2m-1.8-3.4l.5 .4m-1.8-3l.6 .5m-1.8-2.7l.5 .7m-1.8-2.2l.6 .9m-1.8-1.9l.5 1.1m-1.8-1.5l.6 1.3m-1.9-1.1l.6 1.5m-1.8-.7l.5 1.7m-1.8-.4l.6 1.9m-1.8-.1l.5 2m-1.8 .2l.6 2.2m-1.8 .4l.5 2.3m-1.8 .6l.6 2.3m-1.9 .7l.6 2.4m-1.8 .7l.5 2.4m-1.8 .7l.6 2.4m-1.8 .7l.5 2.3m-1.8 .5l.6 2.2m-1.8 .3l.5 2.2m-1.8 0l.6 2m-1.8-.2l.5 1.8m-1.8-.6l.6 1.6m-1.9-.9l.6 1.4m-1.8-1.3l.5 1.1m-1.8-1.6l.6 .9m-1.8-2l.5 .6m-1.8-2.4l.6 .4m-1.8-2.8l.5 .1m-1.8-3l.6-.1m-1.8-3.4l.5-.3m-1.8-3.6l.5-.5m-1.8-3.8l.6-.6m-1.8-4l.5-.7m-1.8-4.1l.6-.8m-1.8-4.1l.5-.8m-1.8-4l.6-.8m-1.8-3.9l.5-.7m-1.8-3.8l.6-.6m-1.9-3.5l.6-.4m-1.8-3.2l.5-.2m-1.8-2.8l.6 .1m-1.8-2.4l.5 .3m-1.8-1.9l.6 .7m-1.8-1.5l.5 1.1m-1.8-.9l.6 1.5m-1.8-.5l.5 1.9m-1.8 .2l.6 2.3m-1.9 .6l.6 2.8m-1.8 1.1l.5 3.2m-1.8 1.7l.6 3.5m-1.8 2.1l.5 4m-1.8 2.5l.6 4.3m-1.8 2.8l.5 4.6m-1.8 3.1l.6 4.8m-1.8 3.3l.5 5.1m-1.8 3.4l.5 5.2m-1.8 3.4l.6 5.3m-1.8 3.3l.5 5.3m-1.8 3.2l.6 5.3m-1.8 2.9l.5 5.1m-1.8 2.6l.6 4.9m-1.8 2.2l.5 4.7"/><path class="s" d="M61.3 -149.5L60.7 -150.2M82.6 -87.9L82.1 -88.5M111.5 -118.7L111 -119.4M129.1 -69L128.5 -70.1M161.8 -183.2L161.2 -183.5M127.3 -72.5L128.5 -70.1"/></g>
<g transform="translate(45.9 237.9)"><path class="fgL" d="M37.5 -36.2l2.5-13.8 2.5-16.3 2.5-17.4 2.5-17.2 2.5-15.9 2.5-13.5 2.6-10.3 2.5-6.6 2.5-2.8 2.5 .9 2.5 4.2 2.5 6.9 2.5 8.8 2.5 9.6 2.5 9.7 2.6 8.8 2.5 7.3 2.5 5 2.5 2.7 2.5 .1 2.5-2.2 2.5-4.2 2.5-5.6 2.6-6.2 2.5-6.1 2.5-5.3 2.5-3.7 2.5-1.8 2.5 .6 2.5 3 2.5 5.2 2.6 7.1 2.5 8.4 2.5 8.9 2.5 8.5 2.5 7.2 2.5 5.2 2.5 2.4 2.5-1 2.5-4.5 2.6-8 2.5-11.3 2.5-13.8 2.5-15.6 2.5-16.3 2.5-15.6 2.5-13.9 2.5-10.9 2.6-6.9 2.5-2-.6-.1-2.5 1.1-2.5 5.9-2.5 10.1-2.5 13.3-2.5 15.2-2.6 16-2.5 15.6-2.5 14-2.5 11.6-2.5 8.6-2.5 5-2.5 1.6-2.5-1.8-2.6-4.7-2.5-6.9-2.5-8.2-2.5-8.8-2.5-8.4-2.5-7.3-2.5-5.5-2.5-3.3-2.5-1-2.6 1.4-2.5 3.4-2.5 5.1-2.5 6-2.5 6.2-2.5 5.7-2.5 4.5-2.5 2.6-2.6 .3-2.5-2.1-2.5-4.7-2.5-6.8-2.5-8.5-2.5-9.6-2.5-9.7-2.5-9-2.6-7.3-2.5-4.8-2.5-1.6-2.5 2-2.5 5.9-2.5 9.5-2.5 12.9-2.5 15.3-2.6 17-2.5 17.3-2.5 16.5-2.5 14.4z"/><path class="r" d="M36.9 -40.5l1.3-6.9 1.2-7.5 1.3-8 1.2-8.5 1.3-8.6 1.2-8.7 1.3-8.6 1.3-8.4 1.2-7.9 1.3-7.4 1.2-6.8 1.3-6.1 1.2-5.2 1.3-4.3 1.3-3.4 1.2-2.5 1.3-1.4 1.2-.6 1.3 .4 1.2 1.2 1.3 2.1 1.2 2.7 1.3 3.4 1.3 3.9 1.2 4.4 1.3 4.6 1.2 4.8 1.3 4.9 1.2 4.9 1.3 4.7 1.2 4.4 1.3 4.1 1.3 3.7 1.2 3.1 1.3 2.7 1.2 2 1.3 1.4 1.2 .7 1.3 .2 1.3-.5 1.2-1 1.3-1.6 1.2-2 1.3-2.5 1.2-2.7 1.3-3 1.2-3.1 1.3-3.1 1.3-3.1 1.2-2.9 1.3-2.7 1.2-2.4 1.3-1.9 1.2-1.5 1.3-1 1.3-.4 1.2 .2 1.3 .8 1.2 1.3 1.3 2 1.2 2.5 1.3 3 1.2 3.5 1.3 3.8 1.3 4.1 1.2 4.3 1.3 4.4 1.2 4.4 1.3 4.2 1.2 4 1.3 3.7 1.2 3.2 1.3 2.6 1.3 2.1 1.2 1.2 1.3 .6 1.2-.4 1.3-1.2 1.2-2.1 1.3-2.9 1.3-3.9 1.2-4.7 1.3-5.4 1.2-6.2 1.3-6.8 1.2-7.2 1.3-7.7 1.2-7.9 1.3-8 1.3-8 1.2-7.8 1.3-7.4 1.2-7 1.3-6.3 1.2-5.5 1.3-4.6 1.2-3.5 1.3-2.4 1.3-1.2 1.2 .1"/><path class="c" d="M162.5 -184.5m0 0l.6 .1m-1.8-.2l.5 .6m-1.8 .6l.6 1m-1.9 1.4l.6 1.5m-1.8 2l.5 2m-1.8 2.6l.6 2.4m-1.8 3.1l.5 2.8m-1.8 3.5l.6 3.1m-1.8 3.9l.5 3.4m-1.8 4l.6 3.7m-1.8 4.1l.5 3.8m-1.8 4.2l.6 4m-1.9 4l.6 4.1m-1.8 3.8l.5 4.1m-1.8 3.6l.6 4.1m-1.8 3.1l.5 4.1m-1.8 2.7l.6 3.9m-1.8 2.3l.5 3.7m-1.8 1.7l.6 3.6m-1.8 1.1l.5 3.3m-1.8 .6l.5 3m-1.8-.1l.6 2.8m-1.8-.7l.5 2.5m-1.8-1.3l.6 2.2m-1.8-1.8l.5 1.9m-1.8-2.5l.6 1.7m-1.8-2.9l.5 1.3m-1.8-3.4l.6 1.1m-1.9-3.7l.6 .8m-1.8-4l.5 .6m-1.8-4.3l.6 .5m-1.8-4.5l.5 .3m-1.8-4.5l.6 .2m-1.8-4.6l.5 .1m-1.8-4.5l.6 .1m-1.8-4.4l.5 .1m-1.8-4.2l.6 .1m-1.9-3.9l.6 .2m-1.8-3.7l.5 .3m-1.8-3.3l.6 .4m-1.8-2.9l.5 .6m-1.8-2.6l.6 .8m-1.8-2.1l.5 .9m-1.8-1.7l.6 1.1m-1.8-1.3l.5 1.3m-1.8-.9l.5 1.5m-1.8-.5l.6 1.7m-1.8-.2l.5 1.8m-1.8 .1l.6 2m-1.8 .4l.5 2.1m-1.8 .6l.6 2.2m-1.8 .7l.5 2.3m-1.8 .8l.6 2.3m-1.9 .8l.6 2.4m-1.8 .7l.5 2.3m-1.8 .7l.6 2.2m-1.8 .5l.5 2.2m-1.8 .3l.6 2m-1.8 0l.5 1.9m-1.8-.3l.6 1.7m-1.8-.7l.5 1.5m-1.8-1l.6 1.3m-1.9-1.5l.6 1.1m-1.8-1.8l.5 .8m-1.8-2.2l.6 .5m-1.8-2.5l.5 .3m-1.8-3l.6 .2m-1.8-3.3l.5-.1m-1.8-3.6l.6-.3m-1.9-3.8l.6-.4m-1.8-4l.5-.6m-1.8-4.1l.6-.7m-1.8-4.2l.5-.7m-1.8-4.2l.6-.7m-1.8-4.1l.5-.6m-1.8-4l.6-.6m-1.8-3.8l.5-.4m-1.8-3.5l.6-.2m-1.9-3.2l.6 0m-1.8-2.7l.5 .2m-1.8-2.3l.6 .6m-1.8-1.8l.5 .9m-1.8-1.3l.6 1.3m-1.8-.7l.5 1.6m-1.8-.2l.6 2.1m-1.8 .4l.5 2.4m-1.8 1l.6 2.8m-1.9 1.5l.6 3.2m-1.8 2l.5 3.6m-1.8 2.5l.6 3.9m-1.8 2.9l.5 4.2m-1.8 3.2l.6 4.5m-1.8 3.4l.5 4.8m-1.8 3.6l.6 4.9m-1.9 3.7l.6 5m-1.8 3.7l.5 5.1m-1.8 3.5l.6 5.1m-1.8 3.4l.5 5m-1.8 3l.6 4.9m-1.8 2.6l.5 4.7m-1.8 2.2l.6 4.3"/><path class="s" d="M62.6 -149.1L62 -149.7M82.7 -88.8L82.1 -89.3M111.6 -119.3L111 -120.1M129.2 -69.3L128.6 -70.4M60.8 -150.9L62 -149.7M161.3 -184.6L162.5 -184.5"/></g>
<g transform="translate(46.5 239.3)"><path class="fgL" d="M37.4 -33.5l2.5-13.3 2.5-16 2.6-17.4 2.5-17.4 2.5-16.3 2.5-14.1 2.5-11.1 2.5-7.3 2.5-3.6 2.5 .3 2.6 3.6 2.5 6.5 2.5 8.5 2.5 9.6 2.5 9.8 2.5 9 2.5 7.6 2.5 5.5 2.5 3.1 2.6 .5 2.5-1.8 2.5-3.9 2.5-5.4 2.5-6.2 2.5-6.2 2.5-5.5 2.5-4 2.6-2.2 2.5 .3 2.5 2.6 2.5 5 2.5 6.9 2.5 8.3 2.5 9 2.5 8.7 2.6 7.6 2.5 5.6 2.5 3 2.5-.4 2.5-3.9 2.5-7.6 2.5-10.9 2.5-13.6 2.6-15.6 2.5-16.4 2.5-16.1 2.5-14.4 2.5-11.7 2.5-7.7 2.5-3-.5-.3-2.5 2-2.6 6.9-2.5 10.9-2.5 13.9-2.5 15.6-2.5 16.3-2.5 15.6-2.5 13.8-2.5 11.3-2.6 8-2.5 4.5-2.5 1-2.5-2.4-2.5-5.2-2.5-7.2-2.5-8.5-2.5-8.9-2.5-8.4-2.6-7.1-2.5-5.2-2.5-3-2.5-.6-2.5 1.8-2.5 3.7-2.5 5.3-2.5 6.1-2.6 6.2-2.5 5.6-2.5 4.2-2.5 2.2-2.5-.1-2.5-2.7-2.5-5-2.5-7.3-2.6-8.8-2.5-9.7-2.5-9.6-2.5-8.8-2.5-6.9-2.5-4.2-2.5-.9-2.5 2.8-2.5 6.6-2.6 10.3-2.5 13.5-2.5 15.9-2.5 17.2-2.5 17.4-2.5 16.3-2.5 13.8z"/><path class="r" d="M36.9 -37.6l1.2-6.5 1.3-7.3 1.2-7.9 1.3-8.4 1.2-8.6 1.3-8.8 1.3-8.7 1.2-8.5 1.3-8.2 1.2-7.7 1.3-7.1 1.2-6.4 1.3-5.6 1.3-4.7 1.2-3.8 1.3-2.8 1.2-1.9 1.3-.9 1.2 0 1.3 .9 1.2 1.7 1.3 2.5 1.3 3.2 1.2 3.7 1.3 4.2 1.2 4.6 1.3 4.7 1.2 4.9 1.3 4.9 1.2 4.8 1.3 4.6 1.3 4.2 1.2 3.9 1.3 3.4 1.2 2.8 1.3 2.2 1.2 1.7 1.3 1 1.3 .4 1.2-.3 1.3-.8 1.2-1.4 1.3-1.9 1.2-2.3 1.3-2.7 1.2-2.9 1.3-3 1.3-3.2 1.2-3.1 1.3-3 1.2-2.8 1.3-2.5 1.2-2.1 1.3-1.6 1.2-1.2 1.3-.6 1.3 0 1.2 .6 1.3 1.2 1.2 1.8 1.3 2.3 1.2 2.9 1.3 3.4 1.3 3.7 1.2 4.1 1.3 4.3 1.2 4.4 1.3 4.5 1.2 4.3 1.3 4.2 1.2 3.8 1.3 3.4 1.3 2.9 1.2 2.3 1.3 1.6 1.2 .8 1.3-.1 1.2-.9 1.3-1.8 1.2-2.7 1.3-3.6 1.3-4.4 1.2-5.3 1.3-6 1.2-6.6 1.3-7.2 1.2-7.7 1.3-7.9 1.3-8.1 1.2-8.2 1.3-7.9 1.2-7.7 1.3-7.3 1.2-6.6 1.3-5.9 1.2-5 1.3-4 1.3-2.9 1.2-1.6 1.3-.4"/><path class="c" d="M162.5 -185.8m0 0l.5 .3m-1.8 .1l.6 .7m-1.8 .9l.5 1.3m-1.8 1.6l.6 1.7m-1.9 2.3l.6 2.1m-1.8 2.9l.5 2.5m-1.8 3.4l.6 2.9m-1.8 3.7l.5 3.2m-1.8 4.1l.6 3.4m-1.8 4.3l.5 3.7m-1.8 4.2l.6 3.9m-1.8 4.3l.5 4m-1.8 4.1l.6 4m-1.9 3.9l.6 4.1m-1.8 3.6l.5 4m-1.8 3.2l.6 3.9m-1.8 2.7l.5 3.8m-1.8 2.2l.6 3.7m-1.8 1.6l.5 3.4m-1.8 1l.6 3.2m-1.9 .4l.6 3m-1.8-.3l.5 2.7m-1.8-.9l.6 2.4m-1.8-1.5l.5 2.1m-1.8-2l.6 1.8m-1.8-2.6l.5 1.5m-1.8-3.1l.6 1.2m-1.8-3.5l.5 1m-1.8-3.9l.6 .8m-1.9-4.2l.6 .6m-1.8-4.4l.5 .4m-1.8-4.6l.6 .3m-1.8-4.6l.5 .2m-1.8-4.7l.6 .2m-1.8-4.6l.5 .1m-1.8-4.4l.6 .1m-1.8-4.2l.5 .2m-1.8-3.9l.6 .2m-1.9-3.6l.6 .4m-1.8-3.3l.5 .5m-1.8-2.8l.6 .6m-1.8-2.4l.5 .8m-1.8-2l.6 1m-1.8-1.6l.5 1.1m-1.8-1.1l.6 1.3m-1.9-.7l.6 1.5m-1.8-.3l.5 1.7m-1.8-.1l.6 1.9m-1.8 .2l.5 2m-1.8 .5l.6 2.1m-1.8 .7l.5 2.2m-1.8 .8l.6 2.3m-1.8 .8l.5 2.3m-1.8 .9l.6 2.3m-1.9 .7l.6 2.3m-1.8 .6l.5 2.2m-1.8 .5l.6 2.1m-1.8 .2l.5 1.9m-1.8 0l.6 1.8m-1.8-.4l.5 1.6m-1.8-.8l.6 1.4m-1.8-1.1l.5 1.2m-1.8-1.6l.5 1m-1.8-2l.6 .8m-1.8-2.5l.5 .6m-1.8-2.8l.6 .3m-1.8-3.1l.5 .1m-1.8-3.5l.6-.1m-1.8-3.8l.5-.2m-1.8-4l.6-.4m-1.9-4.2l.6-.4m-1.8-4.4l.5-.5m-1.8-4.4l.6-.5m-1.8-4.4l.5-.5m-1.8-4.2l.6-.5m-1.8-4.1l.5-.4m-1.8-3.8l.6-.2m-1.8-3.5l.5 0m-1.8-3.2l.6 .2m-1.9-2.7l.6 .5m-1.8-2.2l.5 .8m-1.8-1.7l.6 1.1m-1.8-1.1l.5 1.4m-1.8-.5l.6 1.8m-1.8 .1l.5 2.2m-1.8 .6l.6 2.6m-1.8 1.2l.5 2.9m-1.8 1.8l.5 3.3m-1.8 2.3l.6 3.7m-1.8 2.7l.5 4m-1.8 3.1l.6 4.3m-1.8 3.4l.5 4.5m-1.8 3.7l.6 4.7m-1.8 3.8l.5 4.8m-1.8 3.9l.6 4.9m-1.9 3.9l.6 4.9m-1.8 3.7l.5 4.9m-1.8 3.5l.6 4.8m-1.8 3.1l.5 4.6m-1.8 2.7l.6 4.4m-1.8 2.1l.5 4.1"/><path class="s" d="M62.5 -149.7L62 -150.5M83.9 -87.7L83.3 -88.5M111.5 -119.9L111 -120.7M129.1 -69.7L128.6 -70.7M82.1 -90.2L83.3 -88.5"/></g>
<g transform="translate(47 240.7)"><path class="fgL" d="M37.5 -31.1l2.5-12.7 2.5-15.7 2.5-17.3 2.5-17.7 2.5-16.7 2.5-14.6 2.6-11.6 2.5-8.2 2.5-4.2 2.5-.4 2.5 3.1 2.5 6 2.5 8.3 2.5 9.5 2.6 9.8 2.5 9.2 2.5 7.9 2.5 5.9 2.5 3.5 2.5 1 2.5-1.5 2.5-3.6 2.6-5.2 2.5-6.2 2.5-6.2 2.5-5.7 2.5-4.3 2.5-2.5 2.5-.1 2.5 2.3 2.5 4.6 2.6 6.8 2.5 8.2 2.5 9 2.5 9 2.5 7.9 2.5 6.1 2.5 3.5 2.5 .2 2.6-3.4 2.5-7 2.5-10.5 2.5-13.4 2.5-15.6 2.5-16.5 2.5-16.4 2.5-15.1 2.6-12.3 2.5-8.6 2.5-3.9-.6-.5-2.5 3-2.5 7.7-2.5 11.7-2.5 14.4-2.5 16.1-2.5 16.4-2.6 15.6-2.5 13.6-2.5 10.9-2.5 7.6-2.5 3.9-2.5 .4-2.5-3-2.5-5.6-2.6-7.6-2.5-8.7-2.5-9-2.5-8.3-2.5-6.9-2.5-5-2.5-2.6-2.5-.3-2.6 2.2-2.5 4-2.5 5.5-2.5 6.2-2.5 6.2-2.5 5.4-2.5 3.9-2.5 1.8-2.6-.5-2.5-3.1-2.5-5.5-2.5-7.6-2.5-9-2.5-9.8-2.5-9.6-2.5-8.5-2.5-6.5-2.6-3.6-2.5-.3-2.5 3.6-2.5 7.3-2.5 11.1-2.5 14.1-2.5 16.3-2.5 17.4-2.6 17.4-2.5 16-2.5 13.3z"/><path class="r" d="M36.9 -34.9l1.3-6.2 1.2-7.1 1.3-7.7 1.2-8.3 1.3-8.6 1.3-8.8 1.2-8.8 1.3-8.6 1.2-8.4 1.3-7.9 1.2-7.4 1.3-6.7 1.2-6 1.3-5.1 1.3-4.1 1.2-3.2 1.3-2.3 1.2-1.3 1.3-.3 1.2 .6 1.3 1.4 1.3 2.2 1.2 3 1.3 3.5 1.2 4 1.3 4.5 1.2 4.7 1.3 4.9 1.2 4.9 1.3 4.9 1.3 4.6 1.2 4.4 1.3 4 1.2 3.6 1.3 3 1.2 2.5 1.3 1.9 1.2 1.2 1.3 .6 1.3-.1 1.2-.6 1.3-1.2 1.2-1.8 1.3-2.1 1.2-2.6 1.3-2.8 1.3-3 1.2-3.2 1.3-3.1 1.2-3.1 1.3-2.9 1.2-2.6 1.3-2.2 1.2-1.8 1.3-1.4 1.3-.8 1.2-.2 1.3 .5 1.2 1 1.3 1.6 1.2 2.2 1.3 2.8 1.3 3.2 1.2 3.7 1.3 4 1.2 4.3 1.3 4.5 1.2 4.5 1.3 4.4 1.2 4.3 1.3 4 1.3 3.6 1.2 3.1 1.3 2.5 1.2 1.9 1.3 1.1 1.2 .2 1.3-.6 1.2-1.5 1.3-2.4 1.3-3.4 1.2-4.2 1.3-5 1.2-5.9 1.3-6.5 1.2-7.1 1.3-7.6 1.3-8 1.2-8.1 1.3-8.3 1.2-8.1 1.3-8 1.2-7.5 1.3-6.9 1.2-6.3 1.3-5.4 1.3-4.4 1.2-3.3 1.3-2.2 1.2-.8"/><path class="c" d="M162.5 -186.9m0 0l.6 .5m-1.8 .3l.5 1m-1.8 1.2l.6 1.4m-1.8 1.9l.5 1.8m-1.8 2.6l.6 2.3m-1.9 3.1l.6 2.6m-1.8 3.7l.5 2.9m-1.8 4l.6 3.3m-1.8 4.2l.5 3.6m-1.8 4.4l.6 3.7m-1.8 4.4l.5 3.9m-1.8 4.4l.6 3.9m-1.8 4.2l.5 4m-1.8 4l.5 4m-1.8 3.6l.6 4m-1.8 3.1l.5 3.9m-1.8 2.6l.6 3.8m-1.8 2.1l.5 3.5m-1.8 1.5l.6 3.4m-1.8 .8l.5 3.1m-1.8 .3l.6 2.8m-1.9-.4l.6 2.6m-1.8-1.1l.5 2.3m-1.8-1.7l.6 2m-1.8-2.2l.5 1.7m-1.8-2.8l.6 1.4m-1.8-3.3l.5 1.2m-1.8-3.7l.6 1m-1.8-4.1l.5 .7m-1.8-4.3l.6 .5m-1.9-4.5l.6 .4m-1.8-4.7l.5 .3m-1.8-4.7l.6 .1m-1.8-4.6l.5 .1m-1.8-4.6l.6 .1m-1.8-4.4l.5 .2m-1.8-4.2l.6 .2m-1.8-3.9l.5 .3m-1.8-3.5l.5 .3m-1.8-3.1l.6 .5m-1.8-2.7l.5 .7m-1.8-2.3l.6 .8m-1.8-1.8l.5 1m-1.8-1.5l.6 1.2m-1.8-1l.5 1.4m-1.8-.6l.6 1.6m-1.9-.2l.6 1.7m-1.8 .1l.5 1.8m-1.8 .4l.6 2m-1.8 .6l.5 2.1m-1.8 .8l.6 2.2m-1.8 .9l.5 2.2m-1.8 .9l.6 2.2m-1.8 1l.5 2.2m-1.8 .8l.6 2.2m-1.9 .6l.6 2.1m-1.8 .5l.5 2m-1.8 .1l.6 1.9m-1.8-.1l.5 1.7m-1.8-.5l.6 1.5m-1.8-.9l.5 1.4m-1.8-1.3l.6 1.1m-1.9-1.7l.6 .9m-1.8-2.1l.5 .7m-1.8-2.6l.6 .5m-1.8-3l.5 .4m-1.8-3.4l.6 .1m-1.8-3.7l.5 0m-1.8-4l.6-.2m-1.8-4.2l.5-.3m-1.8-4.3l.6-.4m-1.9-4.5l.6-.4m-1.8-4.5l.5-.4m-1.8-4.5l.6-.4m-1.8-4.3l.5-.3m-1.8-4.2l.6-.2m-1.8-3.8l.5-.1m-1.8-3.4l.6 .1m-1.8-3.1l.5 .4m-1.8-2.6l.6 .6m-1.9-2l.6 .9m-1.8-1.5l.5 1.2m-1.8-.9l.6 1.6m-1.8-.3l.5 1.9m-1.8 .4l.6 2.2m-1.8 1l.5 2.6m-1.8 1.5l.6 3.1m-1.9 2l.6 3.4m-1.8 2.6l.5 3.6m-1.8 3.1l.6 3.9m-1.8 3.5l.5 4.1m-1.8 3.8l.6 4.4m-1.8 4l.5 4.5m-1.8 4.1l.6 4.7m-1.8 4.1l.5 4.8m-1.8 4l.6 4.8m-1.9 3.8l.6 4.7m-1.8 3.6l.5 4.5m-1.8 3.2l.6 4.4m-1.8 2.7l.5 4.1m-1.8 2.1l.6 3.8"/><path class="s" d="M63.9 -149.1L63.3 -149.7M83.9 -88.4L83.4 -89.1M112.8 -119L112.3 -119.7M130.4 -67.4L129.9 -68.6M62 -151.1L63.3 -149.7M111 -121.3L112.3 -119.7M128.6 -71.1L129.9 -68.6"/></g>
<g transform="translate(47.6 242)"><path class="fgL" d="M37.4 -28.9l2.5-12.1 2.6-15.4 2.5-17.2 2.5-17.7 2.5-17 2.5-15.1 2.5-12.3 2.5-8.7 2.5-5 2.5-1 2.6 2.5 2.5 5.7 2.5 7.9 2.5 9.4 2.5 9.8 2.5 9.4 2.5 8.2 2.5 6.3 2.6 3.9 2.5 1.3 2.5-1.1 2.5-3.4 2.5-5 2.5-6.1 2.5-6.3 2.5-5.9 2.6-4.6 2.5-2.7 2.5-.5 2.5 2 2.5 4.4 2.5 6.5 2.5 8.2 2.5 9 2.6 9.2 2.5 8.2 2.5 6.5 2.5 4 2.5 .8 2.5-2.9 2.5-6.5 2.5-10.1 2.5-13.1 2.6-15.5 2.5-16.6 2.5-16.8 2.5-15.5 2.5-13 2.5-9.4 2.5-4.8-.5-.7-2.5 3.9-2.5 8.6-2.6 12.3-2.5 15.1-2.5 16.4-2.5 16.5-2.5 15.6-2.5 13.4-2.5 10.5-2.5 7-2.6 3.4-2.5-.2-2.5-3.5-2.5-6.1-2.5-7.9-2.5-9-2.5-9-2.5-8.2-2.6-6.8-2.5-4.6-2.5-2.3-2.5 .1-2.5 2.5-2.5 4.3-2.5 5.7-2.5 6.2-2.5 6.2-2.6 5.2-2.5 3.6-2.5 1.5-2.5-1-2.5-3.5-2.5-5.9-2.5-7.9-2.5-9.2-2.6-9.8-2.5-9.5-2.5-8.3-2.5-6-2.5-3.1-2.5 .4-2.5 4.2-2.5 8.2-2.6 11.6-2.5 14.6-2.5 16.7-2.5 17.7-2.5 17.3-2.5 15.7-2.5 12.7z"/><path class="r" d="M36.9 -32.4l1.2-5.9 1.3-6.8 1.2-7.6 1.3-8.1 1.3-8.5 1.2-8.8 1.3-8.9 1.2-8.8 1.3-8.5 1.2-8.2 1.3-7.6 1.2-7 1.3-6.2 1.3-5.4 1.2-4.6 1.3-3.6 1.2-2.6 1.3-1.6 1.2-.7 1.3 .3 1.3 1.1 1.2 2 1.3 2.7 1.2 3.3 1.3 3.9 1.2 4.4 1.3 4.6 1.2 4.9 1.3 4.9 1.3 4.9 1.2 4.7 1.3 4.5 1.2 4.2 1.3 3.7 1.2 3.3 1.3 2.6 1.2 2.1 1.3 1.4 1.3 .8 1.2 .2 1.3-.5 1.2-1 1.3-1.6 1.2-2 1.3-2.5 1.3-2.7 1.2-3 1.3-3.2 1.2-3.1 1.3-3.1 1.2-3 1.3-2.7 1.2-2.4 1.3-1.9 1.3-1.5 1.2-1 1.3-.4 1.2 .3 1.3 .8 1.2 1.5 1.3 2 1.2 2.6 1.3 3.2 1.3 3.6 1.2 4 1.3 4.2 1.2 4.5 1.3 4.5 1.2 4.6 1.3 4.4 1.3 4.1 1.2 3.8 1.3 3.4 1.2 2.7 1.3 2.1 1.2 1.4 1.3 .5 1.2-.3 1.3-1.2 1.3-2.2 1.2-3.1 1.3-3.9 1.2-4.9 1.3-5.6 1.2-6.4 1.3-7 1.2-7.6 1.3-8 1.3-8.2 1.2-8.3 1.3-8.3 1.2-8.1 1.3-7.8 1.2-7.3 1.3-6.6 1.3-5.7 1.2-4.9 1.3-3.7 1.2-2.6 1.3-1.3"/><path class="c" d="M162.5 -187.7m0 0l.5 .7m-1.8 .6l.6 1.2m-1.8 1.4l.5 1.6m-1.8 2.1l.6 2.1m-1.8 2.8l.5 2.4m-1.8 3.3l.6 2.8m-1.9 3.8l.6 3.1m-1.8 4.2l.5 3.3m-1.8 4.5l.6 3.5m-1.8 4.6l.5 3.7m-1.8 4.6l.6 3.9m-1.8 4.4l.5 4m-1.8 4.2l.6 4m-1.9 4l.6 4m-1.8 3.6l.5 3.9m-1.8 3.1l.6 3.8m-1.8 2.6l.5 3.6m-1.8 2l.6 3.5m-1.8 1.4l.5 3.2m-1.8 .7l.6 3m-1.8 .1l.5 2.7m-1.8-.5l.6 2.4m-1.9-1.2l.6 2.2m-1.8-1.9l.5 1.9m-1.8-2.4l.6 1.6m-1.8-3l.5 1.4m-1.8-3.5l.6 1.1m-1.8-3.8l.5 .8m-1.8-4.2l.6 .7m-1.8-4.5l.5 .6m-1.8-4.7l.6 .4m-1.9-4.8l.6 .2m-1.8-4.8l.5 .2m-1.8-4.7l.6 .1m-1.8-4.6l.5 .2m-1.8-4.4l.6 .1m-1.8-4.1l.5 .2m-1.8-3.8l.6 .3m-1.9-3.5l.6 .5m-1.8-3.1l.5 .6m-1.8-2.6l.6 .7m-1.8-2.2l.5 .9m-1.8-1.7l.6 1m-1.8-1.3l.5 1.2m-1.8-.8l.6 1.4m-1.8-.4l.5 1.5m-1.8 0l.6 1.6m-1.9 .3l.6 1.8m-1.8 .6l.5 1.9m-1.8 .8l.6 2m-1.8 1l.5 2.1m-1.8 1l.6 2.1m-1.8 1l.5 2.2m-1.8 1l.6 2.1m-1.8 .9l.5 2.1m-1.8 .6l.5 2.1m-1.8 .4l.6 1.9m-1.8 .1l.5 1.8m-1.8-.2l.6 1.7m-1.8-.7l.5 1.5m-1.8-1l.6 1.3m-1.8-1.5l.5 1.1m-1.8-1.9l.6 1m-1.9-2.4l.6 .7m-1.8-2.8l.5 .6m-1.8-3.2l.6 .3m-1.8-3.6l.5 .2m-1.8-3.9l.6 0m-1.8-4.2l.5-.1m-1.8-4.4l.6-.2m-1.8-4.5l.5-.3m-1.8-4.6l.6-.3m-1.9-4.6l.6-.3m-1.8-4.6l.5-.2m-1.8-4.4l.6-.2m-1.8-4.2l.5 0m-1.8-3.9l.6 .2m-1.8-3.5l.5 .3m-1.8-3l.6 .5m-1.8-2.5l.5 .8m-1.8-1.9l.5 1.1m-1.8-1.4l.6 1.4m-1.8-.7l.5 1.7m-1.8-.1l.6 2.1m-1.8 .5l.5 2.5m-1.8 1.1l.6 2.8m-1.8 1.8l.5 3m-1.8 2.4l.6 3.4m-1.9 2.8l.6 3.7m-1.8 3.3l.5 4m-1.8 3.6l.6 4.2m-1.8 4l.5 4.3m-1.8 4.2l.6 4.5m-1.8 4.3l.5 4.6m-1.8 4.3l.6 4.5m-1.8 4.3l.5 4.5m-1.8 4l.6 4.4m-1.9 3.7l.6 4.3m-1.8 3.3l.5 4.1m-1.8 2.7l.6 3.8m-1.8 2.1l.5 3.5"/><path class="s" d="M63.8 -149.6L63.3 -150.4M83.9 -89L83.3 -89.7M112.8 -119.6L112.2 -120.3M130.4 -67.6L129.8 -68.7"/></g>
<g transform="translate(48.2 243.4)"><path class="fgL" d="M37.4 -27l2.5-11.6 2.5-14.9 2.5-17.1 2.5-17.7 2.5-17.3 2.6-15.5 2.5-12.8 2.5-9.4 2.5-5.6 2.5-1.6 2.5 2 2.5 5.1 2.5 7.7 2.6 9.2 2.5 9.8 2.5 9.6 2.5 8.4 2.5 6.6 2.5 4.2 2.5 1.7 2.5-.8 2.5-3 2.6-4.9 2.5-6 2.5-6.4 2.5-5.9 2.5-4.9 2.5-3 2.5-.8 2.5 1.6 2.6 4.1 2.5 6.4 2.5 8 2.5 9.1 2.5 9.3 2.5 8.5 2.5 7 2.5 4.4 2.6 1.3 2.5-2.3 2.5-6 2.5-9.7 2.5-12.8 2.5-15.3 2.5-16.7 2.5-17 2.5-16 2.6-13.7 2.5-10.1 2.5-5.7-.6-.9-2.5 4.8-2.5 9.4-2.5 13-2.5 15.5-2.5 16.8-2.5 16.6-2.6 15.5-2.5 13.1-2.5 10.1-2.5 6.5-2.5 2.9-2.5-.8-2.5-4-2.5-6.5-2.5-8.2-2.6-9.2-2.5-9-2.5-8.2-2.5-6.5-2.5-4.4-2.5-2-2.5 .5-2.5 2.7-2.6 4.6-2.5 5.9-2.5 6.3-2.5 6.1-2.5 5-2.5 3.4-2.5 1.1-2.5-1.3-2.6-3.9-2.5-6.3-2.5-8.2-2.5-9.4-2.5-9.8-2.5-9.4-2.5-7.9-2.5-5.7-2.6-2.5-2.5 1-2.5 5-2.5 8.7-2.5 12.3-2.5 15.1-2.5 17-2.5 17.7-2.5 17.2-2.6 15.4-2.5 12.1z"/><path class="r" d="M36.8 -30.3l1.3-5.6 1.2-6.5 1.3-7.4 1.3-8 1.2-8.4 1.3-8.8 1.2-8.8 1.3-8.9 1.2-8.7 1.3-8.3 1.2-7.8 1.3-7.3 1.3-6.5 1.2-5.8 1.3-4.8 1.2-3.9 1.3-3 1.2-2 1.3-1 1.2 0 1.3 .8 1.3 1.7 1.2 2.5 1.3 3.2 1.2 3.7 1.3 4.2 1.2 4.6 1.3 4.8 1.3 4.9 1.2 4.9 1.3 4.8 1.2 4.6 1.3 4.3 1.2 3.9 1.3 3.4 1.2 2.9 1.3 2.2 1.3 1.7 1.2 .9 1.3 .4 1.2-.3 1.3-.8 1.2-1.5 1.3-1.9 1.2-2.3 1.3-2.7 1.3-3 1.2-3.1 1.3-3.2 1.2-3.1 1.3-3.1 1.2-2.8 1.3-2.5 1.3-2.1 1.2-1.6 1.3-1.1 1.2-.6 1.3 .1 1.2 .7 1.3 1.3 1.2 1.9 1.3 2.5 1.3 3 1.2 3.5 1.3 3.9 1.2 4.3 1.3 4.4 1.2 4.6 1.3 4.6 1.3 4.6 1.2 4.3 1.3 3.9 1.2 3.5 1.3 3 1.2 2.4 1.3 1.6 1.2 .8 1.3 0 1.3-1 1.2-1.9 1.3-2.8 1.2-3.7 1.3-4.6 1.2-5.5 1.3-6.2 1.2-6.9 1.3-7.5 1.3-8 1.2-8.2 1.3-8.4 1.2-8.5 1.3-8.3 1.2-8 1.3-7.5 1.3-6.9 1.2-6.1 1.3-5.2 1.2-4.2 1.3-3 1.2-1.8"/><path class="c" d="M162.4 -188.4m0 0l.6 .9m-1.8 .9l.5 1.3m-1.8 1.7l.6 1.8m-1.8 2.4l.5 2.1m-1.8 3.1l.6 2.5m-1.8 3.6l.5 2.9m-1.8 4l.5 3.2m-1.8 4.3l.6 3.5m-1.8 4.5l.5 3.7m-1.8 4.6l.6 3.8m-1.8 4.7l.5 3.9m-1.8 4.5l.6 3.9m-1.8 4.3l.5 4m-1.8 4l.6 3.9m-1.9 3.6l.6 3.8m-1.8 3.1l.5 3.7m-1.8 2.5l.6 3.5m-1.8 2l.5 3.3m-1.8 1.3l.6 3.1m-1.8 .6l.5 2.9m-1.8-.1l.6 2.6m-1.8-.7l.5 2.3m-1.8-1.3l.6 2m-1.9-2l.6 1.8m-1.8-2.6l.5 1.5m-1.8-3.1l.6 1.2m-1.8-3.6l.5 1.1m-1.8-4.1l.6 .9m-1.8-4.4l.5 .6m-1.8-4.5l.6 .4m-1.8-4.7l.5 .3m-1.8-4.9l.5 .3m-1.8-4.9l.6 .2m-1.8-4.8l.5 .2m-1.8-4.6l.6 .1m-1.8-4.4l.5 .2m-1.8-4.1l.6 .3m-1.8-3.8l.5 .4m-1.8-3.4l.6 .4m-1.9-2.9l.6 .6m-1.8-2.5l.5 .7m-1.8-2l.6 .9m-1.8-1.6l.5 1.1m-1.8-1.2l.6 1.3m-1.8-.7l.5 1.4m-1.8-.3l.6 1.6m-1.8 0l.5 1.7m-1.8 .4l.6 1.9m-1.9 .6l.6 2m-1.8 .8l.5 2.1m-1.8 1l.6 2m-1.8 1.1l.5 2.1m-1.8 1.1l.6 2.1m-1.8 1l.5 2.1m-1.8 .9l.6 2m-1.9 .7l.6 1.9m-1.8 .4l.5 1.9m-1.8 0l.6 1.7m-1.8-.2l.5 1.5m-1.8-.7l.6 1.4m-1.8-1.1l.5 1.2m-1.8-1.6l.6 1.1m-1.8-2l.5 .8m-1.8-2.5l.6 .7m-1.9-2.9l.6 .5m-1.8-3.4l.5 .3m-1.8-3.7l.6 .2m-1.8-4.1l.5 .1m-1.8-4.4l.6 0m-1.8-4.6l.5-.1m-1.8-4.7l.6-.2m-1.8-4.7l.5-.2m-1.8-4.7l.6-.2m-1.9-4.6l.6-.2m-1.8-4.4l.5 0m-1.8-4.2l.6 .1m-1.8-3.8l.5 .2m-1.8-3.4l.6 .5m-1.8-3l.5 .8m-1.8-2.5l.6 1m-1.9-1.8l.6 1.3m-1.8-1.3l.5 1.6m-1.8-.6l.6 1.9m-1.8 .1l.5 2.2m-1.8 .8l.6 2.5m-1.8 1.4l.5 2.8m-1.8 2l.6 3.2m-1.8 2.6l.5 3.4m-1.8 3.1l.6 3.7m-1.9 3.6l.6 3.9m-1.8 3.9l.5 4.1m-1.8 4.2l.6 4.3m-1.8 4.4l.5 4.4m-1.8 4.5l.6 4.4m-1.8 4.4l.5 4.4m-1.8 4.4l.6 4.3m-1.8 4.1l.5 4.3m-1.8 3.7l.6 4.1m-1.9 3.3l.6 3.8m-1.8 2.7l.5 3.6m-1.8 2l.6 3.3"/><path class="s" d="M65 -148.5L64.5 -149.3M83.9 -89.7L83.3 -90.4M112.7 -120.3L112.2 -121M130.3 -67.9L129.8 -69M63.2 -151L64.5 -149.3"/></g>
<g transform="translate(48.7 244.8)"><path class="fgL" d="M37.4 -25.5l2.5-10.9 2.6-14.5 2.5-16.8 2.5-17.8 2.5-17.4 2.5-15.9 2.5-13.3 2.5-9.9 2.5-6.2 2.6-2.3 2.5 1.5 2.5 4.7 2.5 7.3 2.5 9 2.5 9.8 2.5 9.7 2.5 8.6 2.6 6.8 2.5 4.6 2.5 2.1 2.5-.5 2.5-2.8 2.5-4.6 2.5-5.9 2.5-6.4 2.6-6.1 2.5-5.1 2.5-3.3 2.5-1.1 2.5 1.3 2.5 3.8 2.5 6.2 2.5 7.9 2.5 9.1 2.6 9.4 2.5 8.8 2.5 7.3 2.5 4.9 2.5 1.9 2.5-1.8 2.5-5.5 2.5-9.2 2.6-12.6 2.5-15.1 2.5-16.7 2.5-17.2 2.5-16.4 2.5-14.3 2.5-10.9 2.5-6.4-.5-1.2-2.5 5.7-2.5 10.1-2.6 13.7-2.5 16-2.5 17-2.5 16.7-2.5 15.3-2.5 12.8-2.5 9.7-2.5 6-2.5 2.3-2.6-1.3-2.5-4.4-2.5-7-2.5-8.5-2.5-9.3-2.5-9.1-2.5-8-2.5-6.4-2.6-4.1-2.5-1.6-2.5 .8-2.5 3-2.5 4.9-2.5 5.9-2.5 6.4-2.5 6-2.6 4.9-2.5 3-2.5 .8-2.5-1.7-2.5-4.2-2.5-6.6-2.5-8.4-2.5-9.6-2.5-9.8-2.6-9.2-2.5-7.7-2.5-5.1-2.5-2-2.5 1.6-2.5 5.6-2.5 9.4-2.5 12.8-2.6 15.5-2.5 17.3-2.5 17.7-2.5 17.1-2.5 14.9-2.5 11.6z"/><path class="r" d="M36.9 -28.4l1.2-5.3 1.3-6.3 1.3-7.1 1.2-7.8 1.3-8.4 1.2-8.7 1.3-8.8 1.2-8.9 1.3-8.8 1.2-8.5 1.3-8 1.3-7.5 1.2-6.8 1.3-6 1.2-5.2 1.3-4.2 1.2-3.3 1.3-2.3 1.2-1.3 1.3-.3 1.3 .5 1.2 1.5 1.3 2.2 1.2 2.9 1.3 3.6 1.2 4.1 1.3 4.4 1.3 4.8 1.2 4.9 1.3 4.9 1.2 4.9 1.3 4.7 1.2 4.4 1.3 4 1.2 3.5 1.3 3.1 1.3 2.4 1.2 1.8 1.3 1.2 1.2 .5 1.3-.1 1.2-.7 1.3-1.3 1.2-1.7 1.3-2.3 1.3-2.6 1.2-2.9 1.3-3.1 1.2-3.2 1.3-3.2 1.2-3 1.3-2.9 1.3-2.6 1.2-2.3 1.3-1.7 1.2-1.3 1.3-.7 1.2-.1 1.3 .5 1.2 1.1 1.3 1.8 1.3 2.3 1.2 3 1.3 3.4 1.2 3.8 1.3 4.2 1.2 4.5 1.3 4.6 1.2 4.7 1.3 4.6 1.3 4.4 1.2 4.1 1.3 3.8 1.2 3.2 1.3 2.5 1.2 1.9 1.3 1.1 1.3 .2 1.2-.7 1.3-1.6 1.2-2.5 1.3-3.5 1.2-4.4 1.3-5.3 1.2-6 1.3-6.8 1.3-7.4 1.2-7.9 1.3-8.3 1.2-8.4 1.3-8.6 1.2-8.4 1.3-8.2 1.2-7.8 1.3-7.2 1.3-6.5 1.2-5.6 1.3-4.5 1.2-3.5 1.3-2.2"/><path class="c" d="M162.5 -188.9m0 0l.5 1.2m-1.8 1l.6 1.6m-1.8 1.9l.5 1.9m-1.8 2.6l.6 2.4m-1.8 3.2l.5 2.7m-1.8 3.8l.6 3m-1.9 4.2l.6 3.3m-1.8 4.5l.5 3.5m-1.8 4.7l.6 3.7m-1.8 4.7l.5 3.9m-1.8 4.7l.6 3.9m-1.8 4.5l.5 4m-1.8 4.3l.6 3.9m-1.8 4l.5 3.9m-1.8 3.5l.6 3.7m-1.9 3.1l.6 3.6m-1.8 2.4l.5 3.5m-1.8 1.8l.6 3.2m-1.8 1.2l.5 3m-1.8 .5l.6 2.7m-1.8-.2l.5 2.5m-1.8-.9l.6 2.3m-1.8-1.6l.5 2m-1.8-2.2l.6 1.7m-1.9-2.8l.6 1.4m-1.8-3.3l.5 1.2m-1.8-3.7l.6 .9m-1.8-4.1l.5 .7m-1.8-4.5l.6 .6m-1.8-4.7l.5 .5m-1.8-4.9l.6 .3m-1.9-4.9l.6 .2m-1.8-4.9l.5 .2m-1.8-4.8l.6 .2m-1.8-4.7l.5 .2m-1.8-4.4l.6 .3m-1.8-4.1l.5 .3m-1.8-3.7l.6 .3m-1.8-3.3l.5 .5m-1.8-2.8l.6 .6m-1.9-2.4l.6 .8m-1.8-1.9l.5 .9m-1.8-1.4l.6 1.1m-1.8-1l.5 1.2m-1.8-.5l.6 1.4m-1.8-.1l.5 1.5m-1.8 .2l.6 1.7m-1.8 .6l.5 1.8m-1.8 .8l.6 1.9m-1.9 1l.6 1.9m-1.8 1.1l.5 2.1m-1.8 1.1l.6 2.1m-1.8 1.1l.5 2.1m-1.8 1l.6 2m-1.8 .9l.5 2m-1.8 .6l.6 1.9m-1.9 .4l.6 1.7m-1.8 0l.5 1.7m-1.8-.4l.6 1.5m-1.8-.8l.5 1.4m-1.8-1.3l.6 1.2m-1.8-1.7l.5 1m-1.8-2.2l.6 .8m-1.8-2.6l.5 .6m-1.8-3l.6 .4m-1.9-3.5l.6 .4m-1.8-3.9l.5 .2m-1.8-4.2l.6 .1m-1.8-4.5l.5 0m-1.8-4.7l.6-.1m-1.8-4.8l.5-.1m-1.8-4.8l.6-.1m-1.8-4.8l.5-.1m-1.8-4.7l.5 .1m-1.8-4.5l.6 .1m-1.8-4.2l.5 .3m-1.8-3.9l.6 .5m-1.8-3.4l.5 .7m-1.8-2.9l.6 .9m-1.8-2.4l.5 1.2m-1.8-1.7l.6 1.4m-1.9-1.1l.6 1.8m-1.8-.5l.5 2.1m-1.8 .2l.6 2.4m-1.8 .9l.5 2.7m-1.8 1.5l.6 3m-1.8 2.2l.5 3.2m-1.8 2.8l.6 3.5m-1.8 3.3l.5 3.7m-1.8 3.8l.6 3.9m-1.9 4.1l.6 4.1m-1.8 4.4l.5 4.2m-1.8 4.6l.6 4.2m-1.8 4.7l.5 4.2m-1.8 4.6l.6 4.3m-1.8 4.4l.5 4.2m-1.8 4.2l.6 4m-1.8 3.8l.5 3.8m-1.8 3.3l.5 3.6m-1.8 2.7l.6 3.2m-1.8 2.1l.5 2.9"/><path class="s" d="M65.1 -149L64.5 -149.9M85.2 -88.5L84.6 -89.3M112.8 -120.9L112.2 -121.7M131.6 -65.6L131.1 -66.8M83.4 -91.1L84.6 -89.3M129.8 -69.3L131.1 -66.8"/></g>
<g transform="translate(49.3 246.2)"><path class="fgL" d="M37.4 -24.3l2.5-10.3 2.5-13.9 2.5-16.5 2.5-17.7 2.6-17.6 2.5-16.1 2.5-13.7 2.5-10.5 2.5-6.8 2.5-2.8 2.5 .9 2.5 4.3 2.5 6.9 2.6 8.8 2.5 9.7 2.5 9.7 2.5 8.8 2.5 7.1 2.5 4.9 2.5 2.4 2.5-.2 2.6-2.5 2.5-4.5 2.5-5.8 2.5-6.3 2.5-6.2 2.5-5.3 2.5-3.6 2.5-1.4 2.6 1 2.5 3.6 2.5 5.9 2.5 7.8 2.5 9.1 2.5 9.5 2.5 9.1 2.5 7.6 2.5 5.4 2.6 2.3 2.5-1.2 2.5-5 2.5-8.8 2.5-12.2 2.5-14.9 2.5-16.7 2.5-17.4 2.6-16.7 2.5-14.8 2.5-11.6 2.5-7.3-.6-1.3-2.5 6.4-2.5 10.9-2.5 14.3-2.5 16.4-2.5 17.2-2.5 16.7-2.5 15.1-2.6 12.6-2.5 9.2-2.5 5.5-2.5 1.8-2.5-1.9-2.5-4.9-2.5-7.3-2.5-8.8-2.6-9.4-2.5-9.1-2.5-7.9-2.5-6.2-2.5-3.8-2.5-1.3-2.5 1.1-2.5 3.3-2.5 5.1-2.6 6.1-2.5 6.4-2.5 5.9-2.5 4.6-2.5 2.8-2.5 .5-2.5-2.1-2.5-4.6-2.6-6.8-2.5-8.6-2.5-9.7-2.5-9.8-2.5-9-2.5-7.3-2.5-4.7-2.5-1.5-2.6 2.3-2.5 6.2-2.5 9.9-2.5 13.3-2.5 15.9-2.5 17.4-2.5 17.8-2.5 16.8-2.6 14.5-2.5 10.9z"/><path class="r" d="M36.8 -26.9l1.3-5 1.2-5.9 1.3-6.9 1.3-7.6 1.2-8.2 1.3-8.6 1.2-8.9 1.3-8.9 1.2-8.8 1.3-8.6 1.3-8.2 1.2-7.7 1.3-7 1.2-6.3 1.3-5.4 1.2-4.5 1.3-3.6 1.2-2.6 1.3-1.6 1.3-.7 1.2 .3 1.3 1.2 1.2 2 1.3 2.7 1.2 3.4 1.3 3.9 1.2 4.4 1.3 4.6 1.3 4.9 1.2 4.9 1.3 4.9 1.2 4.8 1.3 4.5 1.2 4.1 1.3 3.7 1.3 3.1 1.2 2.6 1.3 2 1.2 1.4 1.3 .7 1.2 .1 1.3-.6 1.2-1.1 1.3-1.7 1.3-2.1 1.2-2.5 1.3-2.9 1.2-3 1.3-3.2 1.2-3.2 1.3-3.2 1.3-2.9 1.2-2.7 1.3-2.4 1.2-1.9 1.3-1.4 1.2-.9 1.3-.2 1.2 .3 1.3 1 1.3 1.6 1.2 2.2 1.3 2.8 1.2 3.4 1.3 3.8 1.2 4.1 1.3 4.5 1.2 4.6 1.3 4.7 1.3 4.7 1.2 4.6 1.3 4.2 1.2 3.9 1.3 3.4 1.2 2.8 1.3 2.1 1.3 1.4 1.2 .5 1.3-.4 1.2-1.4 1.3-2.3 1.2-3.2 1.3-4.2 1.2-5 1.3-5.9 1.3-6.7 1.2-7.2 1.3-7.9 1.2-8.2 1.3-8.5 1.2-8.6 1.3-8.6 1.2-8.4 1.3-8 1.3-7.5 1.2-6.8 1.3-5.9 1.2-5 1.3-3.8 1.2-2.6"/><path class="c" d="M162.4 -189.1m0 0l.6 1.3m-1.8 1.3l.5 1.8m-1.8 2l.6 2.2m-1.8 2.8l.5 2.5m-1.8 3.4l.6 2.9m-1.8 3.9l.5 3.2m-1.8 4.3l.6 3.4m-1.9 4.6l.6 3.6m-1.8 4.8l.5 3.7m-1.8 4.9l.6 3.8m-1.8 4.8l.5 3.9m-1.8 4.6l.6 3.9m-1.8 4.3l.5 3.9m-1.8 4l.6 3.8m-1.8 3.4l.5 3.7m-1.8 3l.6 3.5m-1.9 2.4l.6 3.3m-1.8 1.7l.5 3.2m-1.8 1l.6 2.9m-1.8 .3l.5 2.7m-1.8-.4l.6 2.4m-1.8-1l.5 2.1m-1.8-1.7l.6 1.8m-1.8-2.3l.5 1.6m-1.8-3l.5 1.4m-1.8-3.5l.6 1.1m-1.8-3.9l.5 .9m-1.8-4.3l.6 .7m-1.8-4.6l.5 .6m-1.8-4.8l.6 .3m-1.8-4.9l.5 .3m-1.8-5l.6 .2m-1.9-4.9l.6 .2m-1.8-4.8l.5 .1m-1.8-4.6l.6 .2m-1.8-4.3l.5 .2m-1.8-4l.6 .3m-1.8-3.7l.5 .5m-1.8-3.3l.6 .6m-1.8-2.8l.5 .7m-1.8-2.3l.6 .8m-1.9-1.8l.6 1m-1.8-1.3l.5 1.1m-1.8-.9l.6 1.3m-1.8-.4l.5 1.4m-1.8 0l.6 1.6m-1.8 .3l.5 1.7m-1.8 .7l.6 1.8m-1.8 .9l.5 1.9m-1.8 1l.5 2m-1.8 1.2l.6 2m-1.8 1.2l.5 2m-1.8 1.2l.6 1.9m-1.8 1.1l.5 2m-1.8 .9l.6 1.8m-1.8 .7l.5 1.8m-1.8 .3l.6 1.7m-1.9 0l.6 1.5m-1.8-.4l.5 1.4m-1.8-.8l.6 1.2m-1.8-1.3l.5 1.1m-1.8-1.8l.6 .9m-1.8-2.3l.5 .8m-1.8-2.8l.6 .7m-1.8-3.3l.5 .5m-1.8-3.6l.6 .3m-1.9-4l.6 .2m-1.8-4.3l.5 .1m-1.8-4.6l.6 0m-1.8-4.8l.5 0m-1.8-4.9l.6 0m-1.8-4.9l.5 0m-1.8-4.9l.6 .1m-1.9-4.7l.6 .1m-1.8-4.5l.5 .3m-1.8-4.2l.6 .5m-1.8-3.9l.5 .7m-1.8-3.4l.6 .8m-1.8-2.8l.5 1.1m-1.8-2.3l.6 1.4m-1.8-1.7l.5 1.7m-1.8-1l.6 1.9m-1.9-.3l.6 2.2m-1.8 .4l.5 2.5m-1.8 1.1l.6 2.8m-1.8 1.7l.5 3.1m-1.8 2.3l.6 3.4m-1.8 2.9l.5 3.6m-1.8 3.4l.6 3.8m-1.8 3.9l.5 3.9m-1.8 4.3l.6 4m-1.9 4.6l.6 4.1m-1.8 4.7l.5 4.2m-1.8 4.7l.6 4.2m-1.8 4.7l.5 4.1m-1.8 4.5l.6 3.9m-1.8 4.3l.5 3.8m-1.8 3.8l.6 3.5m-1.9 3.4l.6 3.2m-1.8 2.7l.5 3m-1.8 2l.6 2.6"/><path class="s" d="M66.3 -147.6L65.7 -148.4M85.1 -89.1L84.6 -89.9M114 -120L113.5 -120.7M131.6 -65.9L131 -67M64.5 -150.4L65.7 -148.4M112.2 -122.3L113.5 -120.7"/></g>
<g transform="translate(49.8 247.6)"><path class="fgL" d="M37.4 -23.4l2.6-9.5 2.5-13.5 2.5-16.1 2.5-17.6 2.5-17.5 2.5-16.4 2.5-14.1 2.5-11 2.6-7.3 2.5-3.4 2.5 .4 2.5 3.8 2.5 6.6 2.5 8.5 2.5 9.6 2.5 9.7 2.5 8.9 2.6 7.3 2.5 5.2 2.5 2.7 2.5 .2 2.5-2.3 2.5-4.2 2.5-5.7 2.5-6.4 2.6-6.3 2.5-5.4 2.5-3.8 2.5-1.7 2.5 .7 2.5 3.3 2.5 5.7 2.5 7.6 2.6 9.1 2.5 9.6 2.5 9.2 2.5 8 2.5 5.8 2.5 2.8 2.5-.6 2.5-4.5 2.6-8.3 2.5-11.8 2.5-14.7 2.5-16.7 2.5-17.4 2.5-17.1 2.5-15.3 2.5-12.2 2.5-8.1-.5-1.6-2.5 7.3-2.5 11.6-2.5 14.8-2.6 16.7-2.5 17.4-2.5 16.7-2.5 14.9-2.5 12.2-2.5 8.8-2.5 5-2.5 1.2-2.6-2.3-2.5-5.4-2.5-7.6-2.5-9.1-2.5-9.5-2.5-9.1-2.5-7.8-2.5-5.9-2.5-3.6-2.6-1-2.5 1.4-2.5 3.6-2.5 5.3-2.5 6.2-2.5 6.3-2.5 5.8-2.5 4.5-2.6 2.5-2.5 .2-2.5-2.4-2.5-4.9-2.5-7.1-2.5-8.8-2.5-9.7-2.5-9.7-2.6-8.8-2.5-6.9-2.5-4.3-2.5-.9-2.5 2.8-2.5 6.8-2.5 10.5-2.5 13.7-2.5 16.1-2.6 17.6-2.5 17.7-2.5 16.5-2.5 13.9-2.5 10.3z"/><path class="r" d="M36.9 -25.7l1.2-4.6 1.3-5.7 1.3-6.6 1.2-7.3 1.3-8.1 1.2-8.4 1.3-8.8 1.2-8.9 1.3-8.9 1.3-8.7 1.2-8.3 1.3-7.8 1.2-7.2 1.3-6.5 1.2-5.7 1.3-4.8 1.2-3.9 1.3-2.9 1.3-1.9 1.2-.9 1.3 0 1.2 .9 1.3 1.7 1.2 2.6 1.3 3.2 1.2 3.7 1.3 4.2 1.3 4.6 1.2 4.8 1.3 4.9 1.2 4.9 1.3 4.8 1.2 4.6 1.3 4.2 1.3 3.8 1.2 3.3 1.3 2.8 1.2 2.1 1.3 1.5 1.2 .9 1.3 .2 1.2-.4 1.3-1 1.3-1.5 1.2-2 1.3-2.5 1.2-2.7 1.3-3.1 1.2-3.1 1.3-3.2 1.2-3.2 1.3-3 1.3-2.8 1.2-2.5 1.3-2 1.2-1.6 1.3-1 1.2-.4 1.3 .2 1.3 .8 1.2 1.5 1.3 2.1 1.2 2.7 1.3 3.2 1.2 3.7 1.3 4.1 1.2 4.4 1.3 4.7 1.3 4.7 1.2 4.8 1.3 4.6 1.2 4.5 1.3 4 1.2 3.6 1.3 3 1.2 2.4 1.3 1.6 1.3 .7 1.2-.1 1.3-1.1 1.2-2 1.3-3 1.2-3.9 1.3-4.9 1.3-5.7 1.2-6.5 1.3-7.1 1.2-7.8 1.3-8.2 1.2-8.5 1.3-8.7 1.2-8.7 1.3-8.5 1.3-8.2 1.2-7.7 1.3-7.1 1.2-6.3 1.3-5.3 1.2-4.2 1.3-3.1"/><path class="c" d="M162.5 -189.2m0 0l.5 1.6m-1.8 1.5l.6 1.9m-1.8 2.3l.5 2.4m-1.8 2.9l.6 2.7m-1.8 3.6l.5 3m-1.8 4.1l.6 3.2m-1.8 4.5l.5 3.5m-1.8 4.7l.6 3.7m-1.9 4.8l.6 3.9m-1.8 4.8l.5 3.9m-1.8 4.8l.6 3.9m-1.8 4.6l.5 3.9m-1.8 4.3l.6 3.9m-1.8 3.9l.5 3.7m-1.8 3.4l.6 3.7m-1.8 2.8l.5 3.5m-1.8 2.2l.6 3.3m-1.9 1.6l.6 3m-1.8 .9l.5 2.8m-1.8 .2l.6 2.5m-1.8-.5l.5 2.3m-1.8-1.2l.6 2m-1.8-1.9l.5 1.7m-1.8-2.4l.6 1.4m-1.9-3l.6 1.2m-1.8-3.6l.5 1m-1.8-4l.6 .8m-1.8-4.4l.5 .6m-1.8-4.6l.6 .4m-1.8-4.9l.5 .4m-1.8-5l.6 .3m-1.8-5.1l.5 .3m-1.8-5l.6 .2m-1.9-4.9l.6 .2m-1.8-4.6l.5 .2m-1.8-4.3l.6 .3m-1.8-4l.5 .4m-1.8-3.6l.6 .4m-1.8-3.1l.5 .6m-1.8-2.7l.6 .7m-1.8-2.2l.5 .9m-1.8-1.7l.6 1m-1.9-1.2l.6 1.2m-1.8-.8l.5 1.3m-1.8-.3l.6 1.5m-1.8 .1l.5 1.6m-1.8 .4l.6 1.7m-1.8 .8l.5 1.8m-1.8 1l.6 1.8m-1.9 1.2l.6 1.9m-1.8 1.3l.5 1.9m-1.8 1.3l.6 1.9m-1.8 1.2l.5 2m-1.8 1.1l.6 1.8m-1.8 .9l.5 1.9m-1.8 .6l.6 1.7m-1.8 .3l.5 1.6m-1.8-.1l.6 1.5m-1.9-.5l.6 1.4m-1.8-1l.5 1.2m-1.8-1.4l.6 1m-1.8-1.9l.5 .9m-1.8-2.4l.6 .7m-1.8-2.8l.5 .5m-1.8-3.3l.6 .4m-1.8-3.7l.5 .3m-1.8-4.1l.5 .2m-1.8-4.4l.6 .1m-1.8-4.7l.5 .1m-1.8-4.9l.6 .1m-1.8-5l.5 .1m-1.8-5l.6 .2m-1.8-5l.5 .2m-1.8-4.8l.6 .4m-1.9-4.6l.6 .5m-1.8-4.2l.5 .6m-1.8-3.8l.6 .8m-1.8-3.4l.5 1.1m-1.8-2.8l.6 1.3m-1.8-2.2l.5 1.5m-1.8-1.5l.6 1.8m-1.8-.9l.5 2.1m-1.8-.2l.6 2.4m-1.9 .5l.6 2.7m-1.8 1.2l.5 2.9m-1.8 1.9l.6 3.2m-1.8 2.5l.5 3.4m-1.8 3.1l.6 3.6m-1.8 3.6l.5 3.8m-1.8 4l.6 3.9m-1.8 4.4l.5 4.1m-1.8 4.6l.5 4.1m-1.8 4.8l.6 4m-1.8 4.9l.5 4m-1.8 4.8l.6 3.9m-1.8 4.5l.5 3.8m-1.8 4.3l.6 3.5m-1.8 3.8l.5 3.4m-1.8 3.2l.6 3.1m-1.9 2.6l.6 2.7m-1.8 1.9l.5 2.3"/><path class="s" d="M66.3 -147.9L65.8 -149M85.2 -89.8L84.6 -90.5M114.1 -120.7L113.5 -121.4M131.6 -66.3L131.1 -67.3"/></g>
<g transform="translate(50.4 249)"><path class="fgL" d="M37.4 -22.7l2.5-8.9 2.5-12.8 2.5-15.8 2.5-17.3 2.6-17.6 2.5-16.5 2.5-14.4 2.5-11.4 2.5-7.8 2.5-4 2.5-.1 2.5 3.3 2.6 6.2 2.5 8.3 2.5 9.4 2.5 9.7 2.5 9 2.5 7.5 2.5 5.4 2.5 3 2.6 .4 2.5-2 2.5-4 2.5-5.6 2.5-6.3 2.5-6.3 2.5-5.6 2.5-4 2.5-2 2.6 .4 2.5 3 2.5 5.5 2.5 7.5 2.5 8.9 2.5 9.7 2.5 9.5 2.5 8.2 2.6 6.2 2.5 3.4 2.5-.2 2.5-3.9 2.5-7.9 2.5-11.4 2.5-14.4 2.5-16.5 2.6-17.6 2.5-17.3 2.5-15.7 2.5-12.9 2.5-8.8-.6-1.8-2.5 8.1-2.5 12.2-2.5 15.3-2.5 17.1-2.5 17.4-2.5 16.7-2.5 14.7-2.5 11.8-2.6 8.3-2.5 4.5-2.5 .6-2.5-2.8-2.5-5.8-2.5-8-2.5-9.2-2.5-9.6-2.6-9.1-2.5-7.6-2.5-5.7-2.5-3.3-2.5-.7-2.5 1.7-2.5 3.8-2.5 5.4-2.6 6.3-2.5 6.4-2.5 5.7-2.5 4.2-2.5 2.3-2.5-.2-2.5-2.7-2.5-5.2-2.6-7.3-2.5-8.9-2.5-9.7-2.5-9.6-2.5-8.5-2.5-6.6-2.5-3.8-2.5-.4-2.5 3.4-2.6 7.3-2.5 11-2.5 14.1-2.5 16.4-2.5 17.5-2.5 17.6-2.5 16.1-2.5 13.5-2.6 9.5z"/><path class="r" d="M36.8 -24.8l1.3-4.2 1.3-5.3 1.2-6.3 1.3-7.2 1.2-7.8 1.3-8.3 1.2-8.7 1.3-8.9 1.2-8.8 1.3-8.7 1.3-8.5 1.2-7.9 1.3-7.4 1.2-6.7 1.3-5.9 1.2-5.1 1.3-4.1 1.3-3.2 1.2-2.2 1.3-1.2 1.2-.3 1.3 .7 1.2 1.5 1.3 2.3 1.2 3 1.3 3.6 1.3 4.1 1.2 4.4 1.3 4.8 1.2 4.8 1.3 4.9 1.2 4.8 1.3 4.6 1.2 4.3 1.3 3.9 1.3 3.4 1.2 2.9 1.3 2.3 1.2 1.7 1.3 1 1.2 .4 1.3-.2 1.3-.9 1.2-1.4 1.3-1.9 1.2-2.3 1.3-2.8 1.2-2.9 1.3-3.2 1.2-3.2 1.3-3.2 1.3-3.1 1.2-2.8 1.3-2.6 1.2-2.1 1.3-1.7 1.2-1.2 1.3-.5 1.3 0 1.2 .7 1.3 1.3 1.2 2 1.3 2.5 1.2 3.2 1.3 3.6 1.2 4 1.3 4.4 1.3 4.7 1.2 4.8 1.3 4.8 1.2 4.7 1.3 4.5 1.2 4.2 1.3 3.8 1.2 3.2 1.3 2.6 1.3 1.8 1.2 1 1.3 .2 1.2-.8 1.3-1.8 1.2-2.7 1.3-3.7 1.3-4.6 1.2-5.5 1.3-6.3 1.2-7.1 1.3-7.6 1.2-8.2 1.3-8.5 1.2-8.7 1.3-8.7 1.3-8.7 1.2-8.4 1.3-8 1.2-7.3 1.3-6.6 1.2-5.6 1.3-4.7 1.2-3.4"/><path class="c" d="M162.4 -189m0 0l.6 1.8m-1.8 1.6l.5 2.2m-1.8 2.5l.6 2.5m-1.8 3.1l.5 2.9m-1.8 3.7l.6 3.2m-1.8 4.1l.5 3.5m-1.8 4.5l.6 3.6m-1.8 4.8l.5 3.8m-1.8 4.9l.6 3.8m-1.9 4.9l.6 4m-1.8 4.7l.5 4m-1.8 4.5l.6 4m-1.8 4.2l.5 3.8m-1.8 3.8l.6 3.8m-1.8 3.3l.5 3.5m-1.8 2.8l.6 3.4m-1.8 2.1l.5 3.1m-1.8 1.5l.5 2.9m-1.8 .8l.6 2.7m-1.8 0l.5 2.4m-1.8-.6l.6 2.1m-1.8-1.3l.5 1.9m-1.8-2.1l.6 1.7m-1.8-2.7l.5 1.4m-1.8-3.2l.6 1.1m-1.9-3.7l.6 .9m-1.8-4.1l.5 .7m-1.8-4.5l.6 .6m-1.8-4.8l.5 .5m-1.8-5l.6 .3m-1.8-5l.5 .2m-1.8-5l.6 .1m-1.8-4.9l.5 .1m-1.8-4.8l.6 .2m-1.9-4.6l.6 .3m-1.8-4.3l.5 .3m-1.8-3.9l.6 .4m-1.8-3.6l.5 .5m-1.8-3l.6 .6m-1.8-2.6l.5 .8m-1.8-2.1l.6 .9m-1.8-1.6l.5 1.1m-1.8-1.1l.5 1.2m-1.8-.7l.6 1.4m-1.8-.2l.5 1.5m-1.8 .2l.6 1.6m-1.8 .5l.5 1.7m-1.8 .9l.6 1.8m-1.8 1l.5 1.9m-1.8 1.2l.6 1.9m-1.9 1.3l.6 1.9m-1.8 1.3l.5 1.9m-1.8 1.3l.6 1.8m-1.8 1.1l.5 1.9m-1.8 .9l.6 1.7m-1.8 .6l.5 1.6m-1.8 .3l.6 1.5m-1.8-.1l.5 1.4m-1.8-.5l.6 1.2m-1.9-1l.6 1.1m-1.8-1.5l.5 1m-1.8-2l.6 .8m-1.8-2.5l.5 .7m-1.8-3l.6 .6m-1.8-3.5l.5 .5m-1.8-3.9l.6 .3m-1.9-4.2l.6 .3m-1.8-4.6l.5 .2m-1.8-4.8l.6 .2m-1.8-5l.5 .2m-1.8-5.1l.6 .2m-1.8-5l.5 .2m-1.8-5l.6 .4m-1.8-4.8l.5 .4m-1.8-4.5l.6 .6m-1.9-4.2l.6 .8m-1.8-3.8l.5 1m-1.8-3.3l.6 1.2m-1.8-2.7l.5 1.5m-1.8-2.2l.6 1.8m-1.8-1.5l.5 2m-1.8-.8l.6 2.3m-1.8-.1l.5 2.6m-1.8 .6l.6 2.8m-1.9 1.3l.6 3.1m-1.8 2l.5 3.3m-1.8 2.6l.6 3.5m-1.8 3.2l.5 3.7m-1.8 3.7l.6 3.8m-1.8 4.1l.5 4m-1.8 4.5l.6 3.9m-1.9 4.8l.6 4m-1.8 4.8l.5 4m-1.8 4.9l.6 3.9m-1.8 4.8l.5 3.7m-1.8 4.6l.6 3.6m-1.8 4.2l.5 3.4m-1.8 3.8l.6 3m-1.8 3.3l.5 2.7m-1.8 2.6l.6 2.4m-1.9 1.8l.6 2.1"/><path class="s" d="M67.5 -146L67 -147M86.4 -88.7L85.8 -89.5M114 -121.3L113.5 -122.1M132.9 -64L132.3 -65.1M65.7 -149.3L67 -147M84.6 -91.2L85.8 -89.5M131 -67.7L132.3 -65.1"/></g>
<g transform="translate(50.9 250.3)"><path class="fgL" d="M37.5 -22.3l2.5-8.1 2.5-12.2 2.5-15.3 2.5-17.1 2.5-17.4 2.5-16.7 2.5-14.6 2.5-11.8 2.6-8.3 2.5-4.5 2.5-.7 2.5 2.9 2.5 5.8 2.5 7.9 2.5 9.3 2.5 9.6 2.6 9 2.5 7.7 2.5 5.6 2.5 3.3 2.5 .7 2.5-1.7 2.5-3.8 2.5-5.4 2.6-6.3 2.5-6.4 2.5-5.7 2.5-4.2 2.5-2.3 2.5 .2 2.5 2.7 2.5 5.2 2.6 7.3 2.5 8.9 2.5 9.7 2.5 9.6 2.5 8.6 2.5 6.6 2.5 3.8 2.5 .4 2.5-3.5 2.6-7.3 2.5-11 2.5-14.1 2.5-16.3 2.5-17.6 2.5-17.6 2.5-16.1 2.5-13.5 2.6-9.5-.6-2-2.5 8.8-2.5 12.9-2.5 15.7-2.5 17.3-2.6 17.6-2.5 16.5-2.5 14.4-2.5 11.4-2.5 7.9-2.5 3.9-2.5 .2-2.5-3.4-2.6-6.2-2.5-8.2-2.5-9.5-2.5-9.7-2.5-8.9-2.5-7.5-2.5-5.5-2.5-3-2.6-.4-2.5 2-2.5 4-2.5 5.6-2.5 6.3-2.5 6.3-2.5 5.6-2.5 4-2.5 2-2.6-.4-2.5-3-2.5-5.4-2.5-7.5-2.5-9-2.5-9.7-2.5-9.4-2.5-8.3-2.6-6.2-2.5-3.3-2.5 .1-2.5 4-2.5 7.8-2.5 11.4-2.5 14.4-2.5 16.5-2.6 17.6-2.5 17.3-2.5 15.8-2.5 12.8-2.5 8.9z"/><path class="r" d="M36.9 -24l1.3-3.9 1.2-5 1.3-6 1.2-6.8 1.3-7.6 1.2-8.2 1.3-8.5 1.2-8.8 1.3-8.8 1.3-8.8 1.2-8.4 1.3-8.1 1.2-7.5 1.3-6.9 1.2-6.1 1.3-5.3 1.3-4.4 1.2-3.4 1.3-2.5 1.2-1.5 1.3-.5 1.2 .4 1.3 1.2 1.2 2.1 1.3 2.8 1.3 3.4 1.2 3.9 1.3 4.4 1.2 4.6 1.3 4.8 1.2 4.9 1.3 4.8 1.2 4.6 1.3 4.4 1.3 3.9 1.2 3.6 1.3 3 1.2 2.4 1.3 1.8 1.2 1.2 1.3 .5 1.3-.1 1.2-.7 1.3-1.3 1.2-1.8 1.3-2.2 1.2-2.6 1.3-3 1.2-3.1 1.3-3.2 1.3-3.2 1.2-3.1 1.3-2.9 1.2-2.7 1.3-2.2 1.2-1.8 1.3-1.3 1.2-.7 1.3-.1 1.3 .5 1.2 1.2 1.3 1.8 1.2 2.4 1.3 3.1 1.2 3.5 1.3 4 1.3 4.3 1.2 4.6 1.3 4.8 1.2 4.9 1.3 4.8 1.2 4.7 1.3 4.3 1.2 3.9 1.3 3.4 1.3 2.8 1.2 2.1 1.3 1.3 1.2 .4 1.3-.6 1.2-1.5 1.3-2.4 1.2-3.5 1.3-4.4 1.3-5.2 1.2-6.2 1.3-6.8 1.2-7.6 1.3-8 1.2-8.5 1.3-8.7 1.3-8.9 1.2-8.7 1.3-8.6 1.2-8.1 1.3-7.6 1.2-6.9 1.3-6 1.2-5 1.3-3.8"/><path class="c" d="M162.5 -188.5m0 0l.6 2m-1.9 1.8l.6 2.4m-1.8 2.6l.5 2.7m-1.8 3.3l.6 3m-1.8 3.9l.5 3.3m-1.8 4.3l.6 3.5m-1.8 4.6l.5 3.7m-1.8 4.9l.6 3.8m-1.8 4.9l.5 4m-1.8 4.9l.6 3.9m-1.9 4.8l.6 4m-1.8 4.5l.5 3.9m-1.8 4.1l.6 3.8m-1.8 3.8l.5 3.6m-1.8 3.2l.6 3.5m-1.8 2.7l.5 3.3m-1.8 1.9l.6 3.1m-1.9 1.3l.6 2.9m-1.8 .6l.5 2.5m-1.8-.1l.6 2.3m-1.8-.8l.5 2.1m-1.8-1.5l.6 1.7m-1.8-2.1l.5 1.5m-1.8-2.8l.6 1.3m-1.8-3.4l.5 1.1m-1.8-3.9l.6 .9m-1.9-4.3l.6 .7m-1.8-4.6l.5 .5m-1.8-4.8l.6 .3m-1.8-5l.5 .3m-1.8-5.1l.6 .2m-1.8-5.1l.5 .2m-1.8-5l.6 .2m-1.8-4.8l.5 .2m-1.8-4.5l.6 .2m-1.9-4.2l.6 .3m-1.8-3.8l.5 .4m-1.8-3.5l.6 .6m-1.8-3l.5 .7m-1.8-2.5l.6 .8m-1.8-2l.5 1m-1.8-1.5l.6 1.1m-1.9-1l.6 1.2m-1.8-.5l.5 1.4m-1.8-.1l.6 1.5m-1.8 .3l.5 1.6m-1.8 .6l.6 1.7m-1.8 1l.5 1.7m-1.8 1.2l.6 1.8m-1.8 1.3l.5 1.9m-1.8 1.3l.6 1.9m-1.9 1.3l.6 1.9m-1.8 1.2l.5 1.9m-1.8 1.1l.6 1.7m-1.8 .9l.5 1.7m-1.8 .5l.6 1.6m-1.8 .2l.5 1.5m-1.8-.2l.6 1.3m-1.8-.6l.5 1.2m-1.8-1.1l.5 1.1m-1.8-1.6l.6 .9m-1.8-2.1l.5 .8m-1.8-2.6l.6 .6m-1.8-3l.5 .5m-1.8-3.5l.6 .4m-1.8-4l.5 .4m-1.8-4.3l.6 .2m-1.9-4.6l.6 .2m-1.8-4.8l.5 .2m-1.8-5l.6 .2m-1.8-5.1l.5 .3m-1.8-5.1l.6 .4m-1.8-5l.5 .4m-1.8-4.8l.6 .6m-1.8-4.5l.5 .8m-1.8-4.2l.6 .9m-1.9-3.7l.6 1.2m-1.8-3.3l.5 1.4m-1.8-2.6l.6 1.6m-1.8-2l.5 1.9m-1.8-1.4l.6 2.2m-1.8-.7l.5 2.4m-1.8 .1l.6 2.7m-1.8 .7l.5 2.9m-1.8 1.5l.5 3.2m-1.8 2.1l.6 3.3m-1.8 2.8l.5 3.6m-1.8 3.3l.6 3.7m-1.8 3.8l.5 3.8m-1.8 4.3l.6 3.9m-1.8 4.5l.5 4m-1.8 4.8l.6 3.9m-1.9 4.9l.6 3.8m-1.8 5l.5 3.7m-1.8 4.8l.6 3.6m-1.8 4.6l.5 3.3m-1.8 4.3l.6 3.1m-1.8 3.7l.5 2.9m-1.8 3.1l.6 2.5m-1.8 2.5l.5 2.1m-1.8 1.8l.6 1.7"/><path class="s" d="M67.6 -146.1L67 -147.3M86.4 -89.2L85.9 -90M114.1 -121.8L113.5 -122.6M132.9 -64.2L132.4 -65.3"/></g>
<g transform="translate(51.5 251.7)"><path class="fgL" d="M37.4 -22.3l2.5-7.2 2.5-11.6 2.5-14.8 2.6-16.7 2.5-17.3 2.5-16.7 2.5-14.9 2.5-12.1 2.5-8.8 2.5-5 2.5-1.1 2.6 2.3 2.5 5.4 2.5 7.6 2.5 9 2.5 9.5 2.5 9.1 2.5 7.8 2.5 5.8 2.5 3.5 2.6 1 2.5-1.4 2.5-3.7 2.5-5.2 2.5-6.2 2.5-6.4 2.5-5.8 2.5-4.4 2.6-2.5 2.5-.1 2.5 2.4 2.5 5 2.5 7.1 2.5 8.8 2.5 9.7 2.5 9.7 2.6 8.9 2.5 6.9 2.5 4.3 2.5 .9 2.5-2.9 2.5-6.8 2.5-10.5 2.5-13.8 2.5-16.2 2.6-17.5 2.5-17.8 2.5-16.5 2.5-14 2.5-10.2-.5-2.2-2.6 9.5-2.5 13.5-2.5 16.1-2.5 17.6-2.5 17.6-2.5 16.3-2.5 14.1-2.5 11-2.6 7.3-2.5 3.5-2.5-.4-2.5-3.8-2.5-6.6-2.5-8.6-2.5-9.6-2.5-9.7-2.5-8.9-2.6-7.3-2.5-5.2-2.5-2.7-2.5-.2-2.5 2.3-2.5 4.2-2.5 5.7-2.5 6.4-2.6 6.3-2.5 5.4-2.5 3.8-2.5 1.7-2.5-.7-2.5-3.3-2.5-5.6-2.5-7.7-2.6-9-2.5-9.6-2.5-9.3-2.5-7.9-2.5-5.8-2.5-2.9-2.5 .7-2.5 4.5-2.6 8.3-2.5 11.8-2.5 14.6-2.5 16.7-2.5 17.4-2.5 17.1-2.5 15.3-2.5 12.2-2.5 8.1z"/><path class="r" d="M36.9 -23.7l1.2-3.5 1.3-4.6 1.2-5.6 1.3-6.6 1.2-7.4 1.3-7.9 1.2-8.4 1.3-8.7 1.3-8.7 1.2-8.7 1.3-8.5 1.2-8.2 1.3-7.6 1.2-7 1.3-6.4 1.2-5.4 1.3-4.7 1.3-3.6 1.2-2.8 1.3-1.7 1.2-.8 1.3 .1 1.2 1 1.3 1.9 1.3 2.5 1.2 3.3 1.3 3.7 1.2 4.2 1.3 4.6 1.2 4.7 1.3 4.8 1.2 4.8 1.3 4.6 1.3 4.4 1.2 4.1 1.3 3.6 1.2 3.1 1.3 2.5 1.2 2 1.3 1.3 1.2 .7 1.3 0 1.3-.6 1.2-1.1 1.3-1.7 1.2-2.1 1.3-2.6 1.2-2.8 1.3-3.1 1.3-3.2 1.2-3.2 1.3-3.2 1.2-3 1.3-2.7 1.2-2.3 1.3-1.9 1.2-1.4 1.3-.9 1.3-.2 1.2 .4 1.3 1 1.2 1.7 1.3 2.3 1.2 2.9 1.3 3.4 1.3 3.9 1.2 4.3 1.3 4.6 1.2 4.8 1.3 4.9 1.2 4.9 1.3 4.7 1.2 4.5 1.3 4.1 1.3 3.6 1.2 3 1.3 2.3 1.2 1.5 1.3 .6 1.2-.2 1.3-1.3 1.2-2.2 1.3-3.1 1.3-4.2 1.2-5 1.3-6 1.2-6.7 1.3-7.4 1.2-7.9 1.3-8.4 1.3-8.8 1.2-8.8 1.3-8.9 1.2-8.7 1.3-8.3 1.2-7.8 1.3-7.2 1.2-6.3 1.3-5.3 1.3-4.2"/><path class="c" d="M162.5 -187.9m0 0l.5 2.2m-1.8 2l.6 2.6m-1.9 2.7l.6 2.9m-1.8 3.4l.5 3.2m-1.8 4l.6 3.4m-1.8 4.4l.5 3.6m-1.8 4.7l.6 3.8m-1.8 4.9l.5 3.9m-1.8 5l.6 4m-1.8 4.8l.5 4m-1.8 4.8l.5 3.9m-1.8 4.5l.6 3.9m-1.8 4l.5 3.8m-1.8 3.6l.6 3.7m-1.8 3l.5 3.5m-1.8 2.5l.6 3.2m-1.8 1.8l.5 3m-1.8 1.2l.6 2.7m-1.9 .4l.6 2.5m-1.8-.3l.5 2.2m-1.8-.9l.6 1.9m-1.8-1.7l.5 1.7m-1.8-2.3l.6 1.4m-1.8-2.9l.5 1.1m-1.8-3.4l.6 .9m-1.8-3.9l.5 .7m-1.8-4.3l.6 .6m-1.9-4.7l.6 .4m-1.8-4.9l.5 .3m-1.8-5l.6 .2m-1.8-5.1l.5 .2m-1.8-5.1l.6 .2m-1.8-5l.5 .2m-1.8-4.8l.6 .2m-1.8-4.5l.5 .3m-1.8-4.2l.5 .4m-1.8-3.8l.6 .5m-1.8-3.4l.5 .6m-1.8-2.9l.6 .7m-1.8-2.4l.5 .9m-1.8-1.9l.6 1m-1.8-1.4l.5 1.1m-1.8-.9l.6 1.3m-1.9-.4l.6 1.4m-1.8 0l.5 1.5m-1.8 .4l.6 1.6m-1.8 .7l.5 1.7m-1.8 1l.6 1.8m-1.8 1.2l.5 1.8m-1.8 1.4l.6 1.8m-1.8 1.4l.5 1.8m-1.8 1.4l.6 1.8m-1.9 1.3l.6 1.7m-1.8 1.1l.5 1.7m-1.8 .9l.6 1.5m-1.8 .6l.5 1.5m-1.8 .2l.6 1.4m-1.8-.3l.5 1.3m-1.8-.7l.6 1.1m-1.9-1.1l.6 1m-1.8-1.7l.5 .8m-1.8-2.1l.6 .7m-1.8-2.7l.5 .6m-1.8-3.1l.6 .5m-1.8-3.6l.5 .4m-1.8-4l.6 .3m-1.8-4.4l.5 .3m-1.8-4.7l.6 .3m-1.9-4.9l.6 .2m-1.8-5l.5 .3m-1.8-5.1l.6 .3m-1.8-5l.5 .4m-1.8-5l.6 .6m-1.8-4.8l.5 .8m-1.8-4.5l.6 .9m-1.8-4.2l.5 1.2m-1.8-3.7l.6 1.3m-1.9-3.2l.6 1.6m-1.8-2.6l.5 1.9m-1.8-2l.6 2.1m-1.8-1.3l.5 2.3m-1.8-.6l.6 2.7m-1.8 .1l.5 2.8m-1.8 .8l.6 3.1m-1.9 1.6l.6 3.3m-1.8 2.1l.5 3.5m-1.8 2.9l.6 3.6m-1.8 3.4l.5 3.8m-1.8 3.8l.6 3.9m-1.8 4.3l.5 3.9m-1.8 4.6l.6 3.9m-1.8 4.8l.5 3.8m-1.8 4.9l.6 3.8m-1.9 4.9l.6 3.6m-1.8 4.8l.5 3.4m-1.8 4.5l.6 3.2m-1.8 4.2l.5 2.9m-1.8 3.7l.6 2.5m-1.8 3.1l.5 2.3m-1.8 2.3l.6 1.9m-1.8 1.6l.5 1.4"/><path class="s" d="M68.8 -143.8L68.3 -145M86.4 -89.9L85.8 -90.6M115.3 -120.8L114.7 -121.5M134.1 -62.2L133.6 -63.3M67 -147.5L68.3 -145M113.5 -123.2L114.7 -121.5M132.3 -65.6L133.6 -63.3"/></g>
<path d="M87.8,226.3 88.6,224.0 89.4,221.3 90.2,218.1 90.9,214.6 91.7,210.6 92.5,206.4 93.3,201.8 94.1,197.0 94.9,191.9 95.6,186.7 96.4,181.4 97.2,175.9 98.0,170.4 98.8,164.9 99.6,159.4 100.4,153.9 101.1,148.6 101.9,143.4 102.7,138.4 103.5,133.5 104.3,129.0 105.1,124.6 105.9,120.6 106.6,116.9 107.4,113.5 108.2,110.4 109.0,107.7 109.8,105.4 110.6,103.4 111.3,101.8 112.1,100.6 112.9,99.8 113.7,99.4 114.5,99.3 115.3,99.6 116.1,100.2 116.8,101.1 117.6,102.4 118.4,104.0 119.2,105.8 120.0,107.8 120.8,110.1 121.6,112.6 122.3,115.3 123.1,118.0 123.9,120.9 124.7,123.9 125.5,126.9 126.3,129.9 127.0,133.0 127.8,136.0 128.6,138.9 129.4,141.8 130.2,144.5 131.0,147.1 131.8,149.5 132.5,151.8 133.3,153.9 134.1,155.7 134.9,157.4 135.7,158.8 136.5,159.9 137.3,160.8 138.0,161.5 138.8,161.9 139.6,162.1 140.4,162.0 141.2,161.7 142.0,161.1 142.7,160.3 143.5,159.3 144.3,158.1 145.1,156.8 145.9,155.3 146.7,153.6 147.5,151.8 148.2,150.0 149.0,148.0 149.8,146.0 150.6,144.0 151.4,142.0 152.2,140.0 153.0,138.1 153.7,136.2 154.5,134.4 155.3,132.8 156.1,131.2 156.9,129.9 157.7,128.7 158.5,127.7 159.2,126.9 160.0,126.4 160.8,126.0 161.6,125.9 162.4,126.1 163.2,126.5 163.9,127.2 164.7,128.1 165.5,129.3 166.3,130.7 167.1,132.3 167.9,134.2 168.7,136.2 169.4,138.5 170.2,140.9 171.0,143.5 171.8,146.3 172.6,149.1 173.4,152.0 174.2,155.0 174.9,158.1 175.7,161.1 176.5,164.1 177.3,167.1 178.1,170.0 178.9,172.8 179.6,175.4 180.4,177.9 181.2,180.2 182.0,182.2 182.8,184.1 183.6,185.6 184.4,186.9 185.1,187.8 185.9,188.5 186.7,188.7 187.5,188.7 188.3,188.2 189.1,187.4 189.9,186.2 190.6,184.6 191.4,182.7 192.2,180.3 193.0,177.6 193.8,174.6 194.6,171.2 195.3,167.4 196.1,163.4 196.9,159.1 197.7,154.5 198.5,149.6 199.3,144.6 200.1,139.4 200.8,134.1 201.6,128.7 202.4,123.2 203.2,117.6 204.0,112.1 204.8,106.7 205.6,101.3 206.3,96.1 207.1,91.1 207.9,86.2 208.7,81.7 209.5,77.4 210.3,73.5 211.0,69.9 211.8,66.7 212.6,64.0 213.4,61.8" fill="none" stroke="#ff0000" stroke-width="2.2" stroke-linecap="butt" stroke-linejoin="round"/>
<g transform="translate(52 253.1)"><path class="fgL" d="M37.5 -22.5l2.5-6.5 2.5-10.8 2.5-14.2 2.5-16.4 2.5-17.1 2.5-16.6 2.5-15.1 2.6-12.4 2.5-9.1 2.5-5.5 2.5-1.7 2.5 1.8 2.5 5 2.5 7.2 2.5 8.8 2.6 9.3 2.5 9.1 2.5 7.8 2.5 6.1 2.5 3.7 2.5 1.3 2.5-1.2 2.5-3.4 2.5-5.1 2.6-6.1 2.5-6.4 2.5-5.9 2.5-4.6 2.5-2.7 2.5-.4 2.5 2.2 2.5 4.7 2.6 6.9 2.5 8.7 2.5 9.7 2.5 9.8 2.5 9.1 2.5 7.3 2.5 4.7 2.5 1.4 2.6-2.3 2.5-6.3 2.5-10.1 2.5-13.3 2.5-16 2.5-17.5 2.5-17.8 2.5-16.9 2.6-14.5 2.5-10.9-.6-2.4-2.5 10.2-2.5 14-2.5 16.5-2.5 17.8-2.6 17.5-2.5 16.2-2.5 13.8-2.5 10.5-2.5 6.8-2.5 2.9-2.5-.9-2.5-4.3-2.5-6.9-2.6-8.9-2.5-9.7-2.5-9.7-2.5-8.8-2.5-7.1-2.5-5-2.5-2.4-2.5 .1-2.6 2.5-2.5 4.4-2.5 5.8-2.5 6.4-2.5 6.2-2.5 5.2-2.5 3.7-2.5 1.4-2.6-1-2.5-3.5-2.5-5.8-2.5-7.8-2.5-9.1-2.5-9.5-2.5-9-2.5-7.6-2.5-5.4-2.6-2.3-2.5 1.1-2.5 5-2.5 8.8-2.5 12.1-2.5 14.9-2.5 16.7-2.5 17.3-2.6 16.7-2.5 14.8-2.5 11.6-2.5 7.2z"/><path class="r" d="M36.9 -23.7l1.3-3 1.2-4.2 1.3-5.4 1.2-6.2 1.3-7.1 1.2-7.7 1.3-8.2 1.3-8.5 1.2-8.7 1.3-8.6 1.2-8.5 1.3-8.2 1.2-7.7 1.3-7.2 1.2-6.5 1.3-5.6 1.3-4.9 1.2-3.9 1.3-2.9 1.2-2.1 1.3-1 1.2-.1 1.3 .7 1.3 1.6 1.2 2.4 1.3 3 1.2 3.6 1.3 4 1.2 4.4 1.3 4.6 1.2 4.8 1.3 4.7 1.3 4.7 1.2 4.4 1.3 4.1 1.2 3.7 1.3 3.2 1.2 2.6 1.3 2.1 1.2 1.4 1.3 .9 1.3 .1 1.2-.4 1.3-1 1.2-1.6 1.3-2.1 1.2-2.4 1.3-2.8 1.3-3 1.2-3.2 1.3-3.2 1.2-3.2 1.3-3 1.2-2.8 1.3-2.4 1.2-2 1.3-1.5 1.3-1 1.2-.4 1.3 .3 1.2 .9 1.3 1.5 1.2 2.2 1.3 2.8 1.2 3.3 1.3 3.8 1.3 4.2 1.2 4.6 1.3 4.8 1.2 4.9 1.3 4.9 1.2 4.8 1.3 4.6 1.3 4.3 1.2 3.7 1.3 3.2 1.2 2.5 1.3 1.8 1.2 .9 1.3 0 1.2-1 1.3-1.9 1.3-2.9 1.2-3.9 1.3-4.8 1.2-5.7 1.3-6.5 1.2-7.3 1.3-7.8 1.2-8.4 1.3-8.7 1.3-8.8 1.2-9 1.3-8.8 1.2-8.5 1.3-8 1.2-7.4 1.3-6.6 1.3-5.6 1.2-4.6"/><path class="c" d="M162.5 -187.1m0 0l.6 2.4m-1.8 2.2l.5 2.7m-1.8 2.9l.6 3.1m-1.9 3.5l.6 3.4m-1.8 4l.5 3.6m-1.8 4.4l.6 3.8m-1.8 4.7l.5 4m-1.8 4.8l.6 4m-1.8 5l.5 4m-1.8 4.8l.6 4.1m-1.9 4.6l.6 4m-1.8 4.4l.5 3.8m-1.8 4l.6 3.8m-1.8 3.5l.5 3.5m-1.8 3l.6 3.3m-1.8 2.4l.5 3.1m-1.8 1.7l.6 2.9m-1.8 1l.5 2.6m-1.8 .3l.6 2.4m-1.9-.5l.6 2.1m-1.8-1.1l.5 1.8m-1.8-1.8l.6 1.5m-1.8-2.4l.5 1.3m-1.8-3.1l.6 1.1m-1.8-3.6l.5 .9m-1.8-4.1l.6 .7m-1.8-4.4l.5 .5m-1.8-4.8l.6 .4m-1.9-5l.6 .3m-1.8-5.1l.5 .2m-1.8-5.1l.6 .2m-1.8-5.1l.5 .2m-1.8-5l.6 .2m-1.8-4.8l.5 .3m-1.8-4.5l.6 .3m-1.9-4.1l.6 .4m-1.8-3.7l.5 .5m-1.8-3.3l.6 .6m-1.8-2.8l.5 .8m-1.8-2.3l.6 .9m-1.8-1.8l.5 1m-1.8-1.3l.6 1.2m-1.8-.8l.5 1.3m-1.8-.3l.6 1.4m-1.9 .1l.6 1.5m-1.8 .5l.5 1.6m-1.8 .8l.6 1.7m-1.8 1.1l.5 1.8m-1.8 1.2l.6 1.8m-1.8 1.4l.5 1.8m-1.8 1.4l.6 1.8m-1.8 1.4l.5 1.7m-1.8 1.3l.5 1.7m-1.8 1.1l.6 1.6m-1.8 .8l.5 1.6m-1.8 .5l.6 1.4m-1.8 .2l.5 1.3m-1.8-.3l.6 1.2m-1.8-.8l.5 1.1m-1.8-1.2l.6 .9m-1.9-1.8l.6 .8m-1.8-2.2l.5 .6m-1.8-2.7l.6 .6m-1.8-3.2l.5 .4m-1.8-3.6l.6 .3m-1.8-4l.5 .3m-1.8-4.4l.6 .3m-1.8-4.7l.5 .3m-1.8-5l.6 .3m-1.9-5l.6 .4m-1.8-5.2l.5 .5m-1.8-5.1l.6 .6m-1.8-5l.5 .7m-1.8-4.7l.6 .9m-1.8-4.5l.5 1.1m-1.8-4.1l.6 1.3m-1.8-3.7l.5 1.5m-1.8-3.1l.5 1.8m-1.8-2.5l.6 2m-1.8-1.9l.5 2.3m-1.8-1.3l.6 2.6m-1.8-.5l.5 2.7m-1.8 .2l.6 3.1m-1.8 .8l.5 3.3m-1.8 1.6l.6 3.4m-1.9 2.2l.6 3.6m-1.8 2.9l.5 3.7m-1.8 3.5l.6 3.8m-1.8 3.9l.5 3.9m-1.8 4.3l.6 3.9m-1.8 4.6l.5 3.8m-1.8 4.8l.6 3.8m-1.8 4.9l.5 3.6m-1.8 4.9l.6 3.5m-1.9 4.7l.6 3.3m-1.8 4.4l.5 3m-1.8 4.1l.6 2.7m-1.8 3.5l.5 2.4m-1.8 3l.6 1.9m-1.8 2.3l.5 1.6m-1.8 1.4l.6 1.2"/><path class="s" d="M68.9 -143.9L68.3 -145.2M86.4 -90.7L85.9 -91.3M115.3 -121.4L114.8 -122.2M134.2 -62.5L133.6 -63.6"/></g>
<g transform="translate(52.6 254.5)"><path class="fgL" d="M37.4 -23l2.5-5.7 2.5-10.1 2.6-13.6 2.5-15.8 2.5-16.9 2.5-16.5 2.5-15.1 2.5-12.7 2.5-9.6 2.5-5.9 2.5-2.2 2.6 1.3 2.5 4.5 2.5 6.9 2.5 8.4 2.5 9.2 2.5 9 2.5 7.9 2.5 6.1 2.6 4 2.5 1.5 2.5-.9 2.5-3.2 2.5-4.9 2.5-6 2.5-6.3 2.5-5.9 2.6-4.8 2.5-3 2.5-.6 2.5 1.9 2.5 4.4 2.5 6.7 2.5 8.6 2.5 9.6 2.5 9.9 2.6 9.3 2.5 7.6 2.5 5.2 2.5 1.9 2.5-1.8 2.5-5.7 2.5-9.6 2.5-12.9 2.6-15.7 2.5-17.4 2.5-17.9 2.5-17.1 2.5-15 2.5-11.6-.5-2.6-2.5 10.9-2.6 14.5-2.5 16.9-2.5 17.8-2.5 17.5-2.5 16-2.5 13.3-2.5 10.1-2.5 6.3-2.6 2.3-2.5-1.4-2.5-4.7-2.5-7.3-2.5-9.1-2.5-9.8-2.5-9.7-2.5-8.7-2.6-6.9-2.5-4.7-2.5-2.2-2.5 .4-2.5 2.7-2.5 4.6-2.5 5.9-2.5 6.4-2.6 6.1-2.5 5.1-2.5 3.4-2.5 1.2-2.5-1.3-2.5-3.7-2.5-6.1-2.5-7.8-2.5-9.1-2.6-9.3-2.5-8.8-2.5-7.2-2.5-5-2.5-1.8-2.5 1.7-2.5 5.5-2.5 9.1-2.6 12.4-2.5 15.1-2.5 16.6-2.5 17.1-2.5 16.4-2.5 14.2-2.5 10.8-2.5 6.5z"/><path class="r" d="M36.9 -23.9l1.2-2.6 1.3-3.9 1.2-4.9 1.3-5.9 1.2-6.8 1.3-7.4 1.3-8 1.2-8.4 1.3-8.5 1.2-8.6 1.3-8.4 1.2-8.2 1.3-7.8 1.2-7.3 1.3-6.6 1.3-5.8 1.2-5 1.3-4.1 1.2-3.3 1.3-2.2 1.2-1.3 1.3-.4 1.2 .5 1.3 1.3 1.3 2.2 1.2 2.8 1.3 3.4 1.2 3.8 1.3 4.3 1.2 4.5 1.3 4.7 1.3 4.6 1.2 4.7 1.3 4.4 1.2 4.1 1.3 3.7 1.2 3.3 1.3 2.8 1.2 2.1 1.3 1.6 1.3 1 1.2 .3 1.3-.3 1.2-.9 1.3-1.5 1.2-1.9 1.3-2.4 1.2-2.7 1.3-3 1.3-3.1 1.2-3.2 1.3-3.2 1.2-3 1.3-2.9 1.2-2.5 1.3-2.1 1.3-1.6 1.2-1.1 1.3-.5 1.2 .1 1.3 .8 1.2 1.4 1.3 2 1.2 2.7 1.3 3.2 1.3 3.7 1.2 4.2 1.3 4.5 1.2 4.8 1.3 4.9 1.2 4.9 1.3 4.9 1.3 4.7 1.2 4.4 1.3 3.9 1.2 3.4 1.3 2.7 1.2 2 1.3 1.1 1.2 .3 1.3-.7 1.3-1.6 1.2-2.7 1.3-3.6 1.2-4.6 1.3-5.5 1.2-6.3 1.3-7 1.2-7.8 1.3-8.2 1.3-8.6 1.2-8.9 1.3-9 1.2-8.8 1.3-8.7 1.2-8.2 1.3-7.6 1.3-6.9 1.2-6 1.3-4.9"/><path class="c" d="M162.5 -186.1m0 0l.5 2.6m-1.8 2.3l.6 3m-1.8 3l.5 3.3m-1.8 3.6l.5 3.5m-1.8 4.1l.6 3.8m-1.8 4.4l.5 4m-1.8 4.7l.6 4m-1.8 4.8l.5 4.1m-1.8 4.9l.6 4.1m-1.8 4.8l.5 4m-1.8 4.6l.6 4m-1.9 4.2l.6 3.9m-1.8 3.9l.5 3.7m-1.8 3.3l.6 3.5m-1.8 2.8l.5 3.3m-1.8 2.2l.6 3.1m-1.8 1.5l.5 2.8m-1.8 .8l.6 2.5m-1.8 .2l.5 2.2m-1.8-.6l.6 2m-1.9-1.3l.6 1.7m-1.8-2l.5 1.5m-1.8-2.6l.6 1.2m-1.8-3.2l.5 .9m-1.8-3.6l.6 .7m-1.8-4.1l.5 .6m-1.8-4.5l.6 .4m-1.8-4.8l.5 .3m-1.8-5l.5 .2m-1.8-5.1l.6 .2m-1.8-5.1l.5 .1m-1.8-5l.6 .1m-1.8-4.9l.5 .2m-1.8-4.7l.6 .2m-1.8-4.4l.5 .3m-1.8-4l.6 .4m-1.9-3.6l.6 .5m-1.8-3.2l.5 .7m-1.8-2.7l.6 .8m-1.8-2.2l.5 .9m-1.8-1.7l.6 1.1m-1.8-1.2l.5 1.2m-1.8-.7l.6 1.3m-1.8-.2l.5 1.5m-1.8 .1l.6 1.6m-1.9 .5l.6 1.7m-1.8 .8l.5 1.8m-1.8 1.1l.6 1.7m-1.8 1.3l.5 1.8m-1.8 1.4l.6 1.8m-1.8 1.4l.5 1.7m-1.8 1.4l.6 1.7m-1.9 1.3l.6 1.6m-1.8 1.1l.5 1.6m-1.8 .8l.6 1.4m-1.8 .5l.5 1.3m-1.8 .2l.6 1.2m-1.8-.3l.5 1m-1.8-.7l.6 .9m-1.8-1.2l.5 .8m-1.8-1.8l.6 .7m-1.9-2.3l.6 .6m-1.8-2.7l.5 .4m-1.8-3.2l.6 .4m-1.8-3.7l.5 .4m-1.8-4.1l.6 .3m-1.8-4.4l.5 .3m-1.8-4.7l.6 .3m-1.8-5l.5 .4m-1.8-5l.6 .4m-1.9-5.1l.6 .5m-1.8-5l.5 .7m-1.8-5l.6 .9m-1.8-4.7l.5 1m-1.8-4.4l.6 1.2m-1.8-4l.5 1.4m-1.8-3.6l.6 1.7m-1.9-3l.6 2m-1.8-2.5l.5 2.2m-1.8-1.8l.6 2.4m-1.8-1.1l.5 2.7m-1.8-.5l.6 3m-1.8 .3l.5 3.1m-1.8 1l.6 3.4m-1.8 1.6l.5 3.6m-1.8 2.2l.6 3.8m-1.9 2.8l.6 3.9m-1.8 3.4l.5 3.9m-1.8 3.9l.6 3.9m-1.8 4.3l.5 3.9m-1.8 4.5l.6 3.8m-1.8 4.8l.5 3.7m-1.8 4.8l.6 3.6m-1.8 4.8l.5 3.3m-1.8 4.7l.6 3m-1.9 4.4l.6 2.8m-1.8 4l.5 2.4m-1.8 3.5l.6 2.1m-1.8 2.8l.5 1.7m-1.8 2.2l.6 1.3m-1.8 1.3l.5 .9"/><path class="s" d="M70.1 -141.3L69.5 -142.5M87.7 -89.8L87.1 -90.5M115.3 -122L114.7 -122.8M134.1 -63L133.6 -63.9M68.3 -145.3L69.5 -142.5M85.8 -92.1L87.1 -90.5"/></g>
<g transform="translate(53.1 255.9)"><path class="fgL" d="M37.5 -23.9l2.5-4.7 2.5-9.3 2.5-12.9 2.5-15.4 2.5-16.5 2.5-16.4 2.6-15.1 2.5-12.9 2.5-9.9 2.5-6.4 2.5-2.7 2.5 .8 2.5 4 2.5 6.4 2.5 8.2 2.6 8.9 2.5 8.9 2.5 7.9 2.5 6.3 2.5 4.1 2.5 1.8 2.5-.7 2.5-2.9 2.6-4.7 2.5-5.9 2.5-6.3 2.5-5.9 2.5-4.9 2.5-3.2 2.5-.9 2.5 1.6 2.6 4.2 2.5 6.4 2.5 8.4 2.5 9.6 2.5 10 2.5 9.4 2.5 8 2.5 5.5 2.6 2.5 2.5-1.3 2.5-5.1 2.5-9 2.5-12.5 2.5-15.4 2.5-17.2 2.5-18 2.5-17.3 2.6-15.4 2.5-12.2-.6-2.9-2.5 11.6-2.5 15-2.5 17.1-2.5 17.9-2.5 17.4-2.6 15.7-2.5 12.9-2.5 9.6-2.5 5.7-2.5 1.8-2.5-1.9-2.5-5.2-2.5-7.6-2.6-9.3-2.5-9.9-2.5-9.6-2.5-8.6-2.5-6.7-2.5-4.4-2.5-1.9-2.5 .6-2.5 3-2.6 4.8-2.5 5.9-2.5 6.3-2.5 6-2.5 4.9-2.5 3.2-2.5 .9-2.5-1.5-2.6-4-2.5-6.1-2.5-7.9-2.5-9-2.5-9.2-2.5-8.4-2.5-6.9-2.5-4.5-2.6-1.3-2.5 2.2-2.5 5.9-2.5 9.6-2.5 12.7-2.5 15.1-2.5 16.5-2.5 16.9-2.5 15.8-2.6 13.6-2.5 10.1-2.5 5.7z"/><path class="r" d="M36.9 -24.4l1.3-2.2 1.2-3.5 1.3-4.5 1.2-5.6 1.3-6.4 1.3-7.2 1.2-7.7 1.3-8.1 1.2-8.4 1.3-8.5 1.2-8.3 1.3-8.2 1.2-7.8 1.3-7.3 1.3-6.7 1.2-6 1.3-5.2 1.2-4.4 1.3-3.4 1.2-2.5 1.3-1.6 1.2-.6 1.3 .3 1.3 1 1.2 1.9 1.3 2.6 1.2 3.2 1.3 3.7 1.2 4.1 1.3 4.3 1.3 4.6 1.2 4.6 1.3 4.6 1.2 4.4 1.3 4.1 1.2 3.8 1.3 3.3 1.2 2.8 1.3 2.3 1.3 1.7 1.2 1.1 1.3 .4 1.2-.2 1.3-.7 1.2-1.4 1.3-1.8 1.2-2.2 1.3-2.7 1.3-2.9 1.2-3.1 1.3-3.1 1.2-3.2 1.3-3.1 1.2-2.8 1.3-2.6 1.3-2.2 1.2-1.7 1.3-1.3 1.2-.6 1.3 0 1.2 .6 1.3 1.3 1.2 1.9 1.3 2.5 1.3 3.1 1.2 3.6 1.3 4.1 1.2 4.5 1.3 4.7 1.2 4.9 1.3 5 1.2 4.9 1.3 4.8 1.3 4.5 1.2 4.1 1.3 3.5 1.2 2.9 1.3 2.3 1.2 1.4 1.3 .5 1.3-.4 1.2-1.4 1.3-2.4 1.2-3.3 1.3-4.3 1.2-5.3 1.3-6.1 1.2-6.8 1.3-7.6 1.3-8.1 1.2-8.6 1.3-8.8 1.2-9 1.3-8.9 1.2-8.7 1.3-8.4 1.2-7.9 1.3-7.1 1.3-6.3 1.2-5.3"/><path class="c" d="M162.5 -184.9m0 0l.6 2.9m-1.8 2.4l.5 3.2m-1.8 3.1l.6 3.5m-1.9 3.6l.6 3.8m-1.8 4.1l.5 3.9m-1.8 4.5l.6 4m-1.8 4.7l.5 4.1m-1.8 4.8l.6 4.2m-1.8 4.8l.5 4.2m-1.8 4.6l.6 4.2m-1.8 4.4l.5 4m-1.8 4.1l.6 3.9m-1.9 3.7l.6 3.7m-1.8 3.1l.5 3.5m-1.8 2.6l.6 3.3m-1.8 2l.5 2.9m-1.8 1.4l.6 2.7m-1.8 .6l.5 2.5m-1.8-.1l.6 2.1m-1.8-.7l.5 1.8m-1.8-1.4l.6 1.6m-1.9-2.1l.6 1.3m-1.8-2.7l.5 1m-1.8-3.3l.6 .9m-1.8-3.8l.5 .7m-1.8-4.2l.6 .4m-1.8-4.5l.5 .3m-1.8-4.8l.6 .2m-1.9-5l.6 .2m-1.8-5.1l.5 .1m-1.8-5.1l.6 .1m-1.8-5l.5 .1m-1.8-4.8l.6 .1m-1.8-4.6l.5 .2m-1.8-4.3l.6 .3m-1.8-3.9l.5 .4m-1.8-3.5l.6 .6m-1.9-3.1l.6 .7m-1.8-2.6l.5 .8m-1.8-2.1l.6 1m-1.8-1.6l.5 1.1m-1.8-1.1l.6 1.3m-1.8-.7l.5 1.4m-1.8-.1l.6 1.5m-1.8 .2l.5 1.6m-1.8 .6l.6 1.6m-1.9 1l.6 1.7m-1.8 1.1l.5 1.8m-1.8 1.3l.6 1.7m-1.8 1.5l.5 1.7m-1.8 1.4l.6 1.7m-1.8 1.4l.5 1.7m-1.8 1.2l.6 1.6m-1.9 1.1l.6 1.4m-1.8 .8l.5 1.4m-1.8 .4l.6 1.3m-1.8 .1l.5 1.1m-1.8-.4l.6 1m-1.8-.8l.5 .9m-1.8-1.3l.6 .7m-1.8-1.8l.5 .6m-1.8-2.3l.6 .6m-1.9-2.9l.6 .5m-1.8-3.3l.5 .4m-1.8-3.7l.6 .3m-1.8-4.1l.5 .3m-1.8-4.4l.6 .3m-1.8-4.7l.5 .3m-1.8-4.9l.6 .4m-1.8-5l.5 .5m-1.8-5.1l.5 .7m-1.8-5l.6 .8m-1.8-4.9l.5 .9m-1.8-4.6l.6 1.1m-1.8-4.3l.5 1.4m-1.8-4l.6 1.7m-1.8-3.6l.5 1.9m-1.8-2.9l.6 2.1m-1.9-2.4l.6 2.4m-1.8-1.8l.5 2.7m-1.8-1.1l.6 2.9m-1.8-.4l.5 3.1m-1.8 .3l.6 3.4m-1.8 1l.5 3.5m-1.8 1.7l.6 3.7m-1.8 2.3l.5 3.8m-1.8 2.9l.6 3.9m-1.9 3.4l.6 3.9m-1.8 3.9l.5 3.9m-1.8 4.3l.6 3.8m-1.8 4.5l.5 3.8m-1.8 4.7l.6 3.7m-1.8 4.7l.5 3.4m-1.8 4.7l.6 3.2m-1.8 4.5l.5 3m-1.8 4.2l.5 2.6m-1.8 3.8l.6 2.3m-1.8 3.3l.5 1.8m-1.8 2.7l.6 1.5m-1.8 2l.5 1m-1.8 1.2l.6 .5"/><path class="s" d="M70.1 -141.3L69.6 -142.7M87.7 -90.6L87.2 -91.2M115.3 -122.6L114.8 -123.4M135.4 -61.1L134.9 -62.1M133.6 -64.4L134.9 -62.1"/></g>
<g transform="translate(53.7 257.3)"><path class="fgL" d="M37.4 -25l2.5-3.9 2.5-8.4 2.6-12.2 2.5-14.7 2.5-16.1 2.5-16.2 2.5-15.2 2.5-13 2.5-10.2 2.5-6.8 2.6-3.2 2.5 .3 2.5 3.4 2.5 6 2.5 7.8 2.5 8.7 2.5 8.7 2.5 7.9 2.6 6.4 2.5 4.3 2.5 2 2.5-.4 2.5-2.7 2.5-4.5 2.5-5.7 2.5-6.2 2.5-6 2.6-5 2.5-3.4 2.5-1.1 2.5 1.3 2.5 3.9 2.5 6.2 2.5 8.2 2.5 9.5 2.6 10 2.5 9.6 2.5 8.2 2.5 6 2.5 2.9 2.5-.6 2.5-4.6 2.5-8.5 2.6-12 2.5-15 2.5-17 2.5-17.9 2.5-17.6 2.5-15.8 2.5-12.8-.5-3-2.5 12.2-2.6 15.4-2.5 17.3-2.5 18-2.5 17.2-2.5 15.4-2.5 12.5-2.5 9-2.5 5.1-2.5 1.3-2.6-2.5-2.5-5.5-2.5-8-2.5-9.4-2.5-10-2.5-9.6-2.5-8.4-2.5-6.4-2.6-4.2-2.5-1.6-2.5 .9-2.5 3.2-2.5 4.9-2.5 5.9-2.5 6.3-2.5 5.9-2.6 4.7-2.5 2.9-2.5 .7-2.5-1.8-2.5-4.1-2.5-6.3-2.5-7.9-2.5-8.9-2.6-8.9-2.5-8.2-2.5-6.4-2.5-4-2.5-.8-2.5 2.7-2.5 6.4-2.5 9.9-2.5 12.9-2.6 15.1-2.5 16.4-2.5 16.5-2.5 15.4-2.5 12.9-2.5 9.3-2.5 4.7z"/><path class="r" d="M36.9 -25.3l1.2-1.7 1.3-3 1.2-4.2 1.3-5.1 1.2-6.1 1.3-6.8 1.3-7.5 1.2-7.9 1.3-8.1 1.2-8.4 1.3-8.3 1.2-8.1 1.3-7.8 1.3-7.3 1.2-6.8 1.3-6.1 1.2-5.4 1.3-4.5 1.2-3.7 1.3-2.7 1.2-1.8 1.3-.9 1.3 0 1.2 .8 1.3 1.7 1.2 2.3 1.3 2.9 1.2 3.5 1.3 4 1.2 4.2 1.3 4.4 1.3 4.5 1.2 4.5 1.3 4.4 1.2 4.1 1.3 3.8 1.2 3.4 1.3 2.9 1.3 2.4 1.2 1.7 1.3 1.2 1.2 .6 1.3-.1 1.2-.6 1.3-1.2 1.2-1.7 1.3-2.2 1.3-2.5 1.2-2.8 1.3-3.1 1.2-3.1 1.3-3.2 1.2-3 1.3-2.9 1.3-2.7 1.2-2.2 1.3-1.8 1.2-1.4 1.3-.7 1.2-.2 1.3 .5 1.2 1.1 1.3 1.8 1.3 2.4 1.2 2.9 1.3 3.5 1.2 4 1.3 4.4 1.2 4.7 1.3 4.9 1.2 5 1.3 5 1.3 4.8 1.2 4.6 1.3 4.2 1.2 3.8 1.3 3.1 1.2 2.4 1.3 1.7 1.3 .8 1.2-.2 1.3-1.1 1.2-2 1.3-3.1 1.2-4.1 1.3-4.9 1.2-5.9 1.3-6.6 1.3-7.4 1.2-8 1.3-8.4 1.2-8.8 1.3-9 1.2-9 1.3-8.8 1.2-8.5 1.3-8 1.3-7.4 1.2-6.6 1.3-5.6"/><path class="c" d="M162.5 -183.4m0 0l.5 3m-1.8 2.6l.6 3.4m-1.8 3.2l.5 3.6m-1.8 3.8l.6 3.8m-1.9 4.2l.6 4m-1.8 4.5l.5 4.2m-1.8 4.6l.6 4.3m-1.8 4.7l.5 4.3m-1.8 4.7l.6 4.2m-1.8 4.6l.5 4.1m-1.8 4.3l.6 4m-1.8 4l.5 3.8m-1.8 3.6l.6 3.6m-1.9 3l.6 3.4m-1.8 2.5l.5 3.1m-1.8 1.8l.6 2.9m-1.8 1.2l.5 2.6m-1.8 .5l.6 2.3m-1.8-.3l.5 2.1m-1.8-1l.6 1.8m-1.8-1.6l.5 1.4m-1.8-2.2l.5 1.2m-1.8-2.9l.6 1m-1.8-3.4l.5 .7m-1.8-3.8l.6 .5m-1.8-4.3l.5 .4m-1.8-4.6l.6 .3m-1.8-4.9l.5 .2m-1.8-5l.6 .1m-1.9-5.1l.6 .1m-1.8-5.1l.5 .1m-1.8-5l.6 .1m-1.8-4.8l.5 .2m-1.8-4.6l.6 .3m-1.8-4.3l.5 .4m-1.8-3.9l.6 .5m-1.8-3.4l.5 .6m-1.8-3l.6 .7m-1.9-2.5l.6 .9m-1.8-2l.5 1m-1.8-1.5l.6 1.2m-1.8-1l.5 1.3m-1.8-.6l.6 1.4m-1.8 0l.5 1.5m-1.8 .3l.6 1.6m-1.8 .6l.5 1.7m-1.8 1l.5 1.7m-1.8 1.2l.6 1.7m-1.8 1.3l.5 1.8m-1.8 1.4l.6 1.7m-1.8 1.4l.5 1.7m-1.8 1.4l.6 1.6m-1.8 1.2l.5 1.5m-1.8 1l.6 1.5m-1.9 .7l.6 1.3m-1.8 .4l.5 1.2m-1.8 0l.6 1.1m-1.8-.5l.5 1m-1.8-.9l.6 .8m-1.8-1.4l.5 .7m-1.8-1.9l.6 .6m-1.8-2.3l.5 .4m-1.8-2.8l.6 .4m-1.9-3.3l.6 .3m-1.8-3.7l.5 .3m-1.8-4.1l.6 .3m-1.8-4.4l.5 .3m-1.8-4.7l.6 .4m-1.8-4.9l.5 .5m-1.8-5l.6 .6m-1.9-5l.6 .7m-1.8-4.9l.5 .9m-1.8-4.9l.6 1.1m-1.8-4.6l.5 1.4m-1.8-4.3l.6 1.5m-1.8-3.8l.5 1.8m-1.8-3.5l.6 2.1m-1.8-2.9l.5 2.3m-1.8-2.3l.6 2.6m-1.9-1.7l.6 2.8m-1.8-1l.5 3.1m-1.8-.4l.6 3.3m-1.8 .4l.5 3.5m-1.8 1l.6 3.7m-1.8 1.7l.5 3.8m-1.8 2.3l.6 3.9m-1.8 2.9l.5 3.9m-1.8 3.4l.6 4m-1.9 3.8l.6 4m-1.8 4.1l.5 3.9m-1.8 4.4l.6 3.8m-1.8 4.6l.5 3.5m-1.8 4.6l.6 3.4m-1.8 4.5l.5 3.1m-1.8 4.4l.6 2.7m-1.9 4.1l.6 2.4m-1.8 3.7l.5 2m-1.8 3.1l.6 1.6m-1.8 2.6l.5 1.1m-1.8 1.9l.6 .7m-1.8 1l.5 .3"/><path class="s" d="M71.3 -138.4L70.8 -139.8M87.7 -91.4L87.1 -92M116.6 -121.5L116 -122.2M135.4 -61.5L134.8 -62.5M69.5 -142.7L70.8 -139.8M114.7 -124L116 -122.2"/></g>
<g transform="translate(54.3 258.6)"><path class="fgL" d="M37.4 -26.3l2.5-3 2.5-7.5 2.5-11.4 2.5-14.1 2.5-15.6 2.5-15.9 2.6-15.1 2.5-13.2 2.5-10.4 2.5-7.2 2.5-3.7 2.5-.3 2.5 2.9 2.5 5.6 2.6 7.3 2.5 8.4 2.5 8.6 2.5 7.8 2.5 6.4 2.5 4.5 2.5 2.2 2.5-.2 2.6-2.4 2.5-4.2 2.5-5.6 2.5-6.1 2.5-6 2.5-5.1 2.5-3.5 2.5-1.4 2.6 1 2.5 3.6 2.5 6 2.5 8 2.5 9.4 2.5 10 2.5 9.7 2.5 8.5 2.5 6.3 2.6 3.5 2.5-.1 2.5-4 2.5-7.9 2.5-11.5 2.5-14.5 2.5-16.8 2.5-17.9 2.6-17.6 2.5-16.2 2.5-13.4-.6-3.3-2.5 12.8-2.5 15.8-2.5 17.6-2.5 17.9-2.5 17-2.5 15-2.6 12-2.5 8.5-2.5 4.6-2.5 .6-2.5-2.9-2.5-6-2.5-8.2-2.5-9.6-2.6-10-2.5-9.5-2.5-8.2-2.5-6.2-2.5-3.9-2.5-1.3-2.5 1.1-2.5 3.4-2.6 5-2.5 6-2.5 6.2-2.5 5.7-2.5 4.5-2.5 2.7-2.5 .4-2.5-2-2.5-4.3-2.6-6.4-2.5-7.9-2.5-8.7-2.5-8.7-2.5-7.8-2.5-6-2.5-3.4-2.5-.3-2.6 3.2-2.5 6.8-2.5 10.2-2.5 13-2.5 15.2-2.5 16.2-2.5 16.1-2.5 14.7-2.6 12.2-2.5 8.4-2.5 3.9z"/><path class="r" d="M36.8 -26.3l1.3-1.3 1.2-2.6 1.3-3.7 1.2-4.7 1.3-5.7 1.3-6.5 1.2-7.1 1.3-7.6 1.2-8 1.3-8.1 1.2-8.2 1.3-8 1.3-7.8 1.2-7.4 1.3-6.8 1.2-6.2 1.3-5.5 1.2-4.7 1.3-3.9 1.2-2.9 1.3-2.1 1.3-1.1 1.2-.3 1.3 .6 1.2 1.4 1.3 2 1.2 2.8 1.3 3.2 1.2 3.8 1.3 4 1.3 4.3 1.2 4.4 1.3 4.4 1.2 4.3 1.3 4.1 1.2 3.8 1.3 3.4 1.3 3 1.2 2.4 1.3 1.9 1.2 1.3 1.3 .7 1.2 .1 1.3-.5 1.2-1.1 1.3-1.6 1.3-2 1.2-2.5 1.3-2.7 1.2-3 1.3-3.1 1.2-3.1 1.3-3.1 1.2-2.9 1.3-2.7 1.3-2.3 1.2-1.9 1.3-1.5 1.2-.8 1.3-.3 1.2 .3 1.3 1 1.3 1.6 1.2 2.3 1.3 2.8 1.2 3.4 1.3 3.9 1.2 4.3 1.3 4.6 1.2 4.9 1.3 5 1.3 5 1.2 4.9 1.3 4.7 1.2 4.3 1.3 3.9 1.2 3.3 1.3 2.7 1.2 1.9 1.3 1 1.3 .2 1.2-.8 1.3-1.8 1.2-2.8 1.3-3.8 1.2-4.7 1.3-5.6 1.3-6.4 1.2-7.2 1.3-7.8 1.2-8.3 1.3-8.7 1.2-8.9 1.3-9 1.2-8.9 1.3-8.7 1.3-8.2 1.2-7.6 1.3-6.8 1.2-6"/><path class="c" d="M162.4 -181.7m0 0l.6 3.3m-1.8 2.7l.5 3.6m-1.8 3.2l.6 3.9m-1.8 3.7l.5 4.1m-1.8 4.1l.6 4.3m-1.9 4.4l.6 4.3m-1.8 4.6l.5 4.3m-1.8 4.7l.6 4.3m-1.8 4.6l.5 4.3m-1.8 4.4l.6 4.2m-1.8 4.1l.5 4.1m-1.8 3.7l.6 3.9m-1.8 3.3l.5 3.6m-1.8 2.8l.6 3.4m-1.9 2.2l.6 3.1m-1.8 1.6l.5 2.9m-1.8 .9l.6 2.5m-1.8 .3l.5 2.2m-1.8-.4l.6 1.9m-1.8-1.1l.5 1.6m-1.8-1.8l.6 1.4m-1.9-2.4l.6 1.1m-1.8-3l.5 .8m-1.8-3.5l.6 .7m-1.8-4l.5 .5m-1.8-4.4l.6 .4m-1.8-4.7l.5 .2m-1.8-4.9l.6 .1m-1.8-5l.5 .1m-1.8-5.1l.6 .1m-1.9-5.1l.6 .1m-1.8-5l.5 .1m-1.8-4.7l.6 .2m-1.8-4.5l.5 .3m-1.8-4.2l.6 .4m-1.8-3.8l.5 .5m-1.8-3.3l.6 .6m-1.8-2.9l.5 .8m-1.8-2.4l.6 .9m-1.9-1.9l.6 1.1m-1.8-1.4l.5 1.2m-1.8-.9l.6 1.3m-1.8-.5l.5 1.5m-1.8 0l.6 1.5m-1.8 .4l.5 1.6m-1.8 .7l.6 1.7m-1.9 1l.6 1.7m-1.8 1.2l.5 1.7m-1.8 1.4l.6 1.7m-1.8 1.4l.5 1.7m-1.8 1.4l.6 1.6m-1.8 1.4l.5 1.5m-1.8 1.2l.6 1.5m-1.8 1l.5 1.3m-1.8 .7l.6 1.2m-1.9 .4l.6 1.1m-1.8 0l.5 .9m-1.8-.4l.6 .8m-1.8-.9l.5 .7m-1.8-1.4l.6 .6m-1.8-1.9l.5 .5m-1.8-2.4l.6 .4m-1.8-2.8l.5 .3m-1.8-3.3l.5 .3m-1.8-3.7l.6 .3m-1.8-4.1l.5 .3m-1.8-4.4l.6 .4m-1.8-4.7l.5 .4m-1.8-4.8l.6 .5m-1.8-4.9l.5 .7m-1.8-5l.6 .8m-1.9-4.8l.6 1m-1.8-4.8l.5 1.3m-1.8-4.5l.6 1.4m-1.8-4.2l.5 1.7m-1.8-3.7l.6 1.9m-1.8-3.3l.5 2.2m-1.8-2.8l.6 2.5m-1.8-2.2l.5 2.8m-1.8-1.7l.6 3.1m-1.9-1l.6 3.3m-1.8-.4l.5 3.5m-1.8 .4l.6 3.7m-1.8 1l.5 3.8m-1.8 1.7l.6 3.9m-1.8 2.3l.5 4m-1.8 2.8l.6 4.1m-1.8 3.3l.5 4.1m-1.8 3.7l.5 4m-1.8 4l.6 3.9m-1.8 4.3l.5 3.7m-1.8 4.4l.6 3.5m-1.8 4.5l.5 3.2m-1.8 4.4l.6 2.9m-1.8 4.2l.5 2.6m-1.8 3.9l.6 2.2m-1.9 3.5l.6 1.8m-1.8 2.9l.5 1.4m-1.8 2.3l.6 .9m-1.8 1.7l.5 .4m-1.8 .9l.6 0"/><path class="s" d="M71.3 -138.3L70.7 -139.7M88.9 -90.8L88.3 -91.4M116.5 -122L116 -122.8M135.3 -62L134.8 -62.8M87.1 -92.7L88.3 -91.4"/></g>
<g transform="translate(54.8 260)"><path class="fgL" d="M37.4 -28.1l2.5-1.9 2.6-6.6 2.5-10.6 2.5-13.3 2.5-15.1 2.5-15.6 2.5-15 2.5-13.2 2.5-10.7 2.6-7.6 2.5-4.2 2.5-.8 2.5 2.4 2.5 5 2.5 6.9 2.5 8.1 2.5 8.3 2.5 7.8 2.6 6.4 2.5 4.6 2.5 2.4 2.5 .1 2.5-2.1 2.5-4 2.5-5.4 2.5-6 2.6-6 2.5-5.2 2.5-3.6 2.5-1.7 2.5 .8 2.5 3.3 2.5 5.7 2.5 7.7 2.6 9.3 2.5 10 2.5 9.8 2.5 8.8 2.5 6.7 2.5 3.9 2.5 .5 2.5-3.4 2.5-7.2 2.6-11 2.5-14.1 2.5-16.5 2.5-17.7 2.5-17.8 2.5-16.5 2.5-13.9-.5-3.5-2.5 13.4-2.5 16.2-2.6 17.6-2.5 17.9-2.5 16.8-2.5 14.5-2.5 11.5-2.5 7.9-2.5 4-2.5 .1-2.6-3.5-2.5-6.3-2.5-8.5-2.5-9.7-2.5-10-2.5-9.4-2.5-8-2.5-6-2.5-3.6-2.6-1-2.5 1.4-2.5 3.5-2.5 5.1-2.5 6-2.5 6.1-2.5 5.6-2.5 4.2-2.6 2.4-2.5 .2-2.5-2.2-2.5-4.5-2.5-6.4-2.5-7.8-2.5-8.6-2.5-8.4-2.6-7.3-2.5-5.6-2.5-2.9-2.5 .3-2.5 3.7-2.5 7.2-2.5 10.4-2.5 13.2-2.6 15.1-2.5 15.9-2.5 15.6-2.5 14.1-2.5 11.4-2.5 7.5-2.5 3z"/><path class="r" d="M36.9 -27.7l1.2-.9 1.3-2.1 1.2-3.2 1.3-4.3 1.3-5.3 1.2-6.1 1.3-6.8 1.2-7.3 1.3-7.7 1.2-7.9 1.3-8 1.2-7.9 1.3-7.7 1.3-7.4 1.2-6.9 1.3-6.3 1.2-5.6 1.3-4.8 1.2-4.1 1.3-3.1 1.3-2.3 1.2-1.4 1.3-.6 1.2 .3 1.3 1.1 1.2 1.8 1.3 2.5 1.2 3.1 1.3 3.5 1.3 3.8 1.2 4.2 1.3 4.2 1.2 4.3 1.3 4.3 1.2 4 1.3 3.8 1.2 3.4 1.3 3 1.3 2.5 1.2 2 1.3 1.4 1.2 .8 1.3 .2 1.2-.4 1.3-.9 1.3-1.5 1.2-1.9 1.3-2.3 1.2-2.7 1.3-2.9 1.2-3 1.3-3.1 1.2-3.1 1.3-2.9 1.3-2.7 1.2-2.4 1.3-2 1.2-1.5 1.3-1 1.2-.4 1.3 .2 1.3 .8 1.2 1.5 1.3 2.1 1.2 2.7 1.3 3.3 1.2 3.8 1.3 4.2 1.2 4.5 1.3 4.9 1.3 5 1.2 5 1.3 4.9 1.2 4.8 1.3 4.5 1.2 4 1.3 3.5 1.2 2.8 1.3 2.2 1.3 1.3 1.2 .4 1.3-.5 1.2-1.5 1.3-2.5 1.2-3.4 1.3-4.5 1.3-5.3 1.2-6.2 1.3-6.9 1.2-7.6 1.3-8.2 1.2-8.6 1.3-8.9 1.2-9 1.3-8.9 1.3-8.7 1.2-8.4 1.3-7.8 1.2-7.1 1.3-6.3"/><path class="c" d="M162.5 -179.8m0 0l.5 3.5m-1.8 2.8l.6 3.7m-1.8 3.4l.5 4m-1.8 3.8l.6 4.2m-1.8 4.2l.5 4.3m-1.8 4.4l.6 4.4m-1.9 4.5l.6 4.5m-1.8 4.5l.5 4.4m-1.8 4.5l.6 4.3m-1.8 4.3l.5 4.2m-1.8 4l.6 4m-1.8 3.6l.5 3.8m-1.8 3.1l.6 3.6m-1.8 2.6l.5 3.3m-1.8 2l.5 3.1m-1.8 1.4l.6 2.7m-1.8 .7l.5 2.4m-1.8 .1l.6 2.1m-1.8-.6l.5 1.8m-1.8-1.3l.6 1.5m-1.8-1.9l.5 1.2m-1.8-2.5l.6 .9m-1.9-3.1l.6 .8m-1.8-3.6l.5 .5m-1.8-4l.6 .4m-1.8-4.4l.5 .2m-1.8-4.7l.6 .1m-1.8-4.9l.5 .1m-1.8-5l.6 0m-1.8-5l.5 0m-1.8-5l.6 0m-1.9-4.9l.6 .1m-1.8-4.6l.5 .1m-1.8-4.3l.6 .2m-1.8-4l.5 .4m-1.8-3.7l.6 .5m-1.8-3.2l.5 .7m-1.8-2.8l.6 .8m-1.8-2.3l.5 1m-1.8-1.8l.5 1.1m-1.8-1.3l.6 1.2m-1.8-.8l.5 1.4m-1.8-.4l.6 1.5m-1.8 0l.5 1.6m-1.8 .4l.6 1.6m-1.8 .8l.5 1.7m-1.8 1l.6 1.7m-1.9 1.2l.6 1.7m-1.8 1.4l.5 1.7m-1.8 1.4l.6 1.6m-1.8 1.4l.5 1.6m-1.8 1.3l.6 1.5m-1.8 1.2l.5 1.4m-1.8 .9l.6 1.3m-1.8 .6l.5 1.2m-1.8 .3l.6 1m-1.9-.1l.6 .9m-1.8-.5l.5 .8m-1.8-1l.6 .6m-1.8-1.4l.5 .5m-1.8-1.9l.6 .4m-1.8-2.4l.5 .4m-1.8-2.9l.6 .3m-1.9-3.3l.6 .3m-1.8-3.7l.5 .3m-1.8-4.1l.6 .3m-1.8-4.3l.5 .3m-1.8-4.6l.6 .5m-1.8-4.8l.5 .6m-1.8-4.8l.6 .7m-1.8-4.9l.5 .9m-1.8-4.7l.6 1.1m-1.9-4.6l.6 1.3m-1.8-4.4l.5 1.6m-1.8-4.1l.6 1.9m-1.8-3.7l.5 2.1m-1.8-3.2l.6 2.4m-1.8-2.7l.5 2.7m-1.8-2.1l.6 2.9m-1.8-1.5l.5 3.2m-1.8-.9l.6 3.4m-1.9-.3l.6 3.7m-1.8 .4l.5 3.8m-1.8 1l.6 4m-1.8 1.6l.5 4.1m-1.8 2.2l.6 4.2m-1.8 2.7l.5 4.1m-1.8 3.3l.6 4.1m-1.9 3.6l.6 4m-1.8 3.9l.5 3.9m-1.8 4.1l.6 3.7m-1.8 4.2l.5 3.5m-1.8 4.2l.6 3.2m-1.8 4.1l.5 2.8m-1.8 4l.6 2.4m-1.8 3.7l.5 2m-1.8 3.3l.6 1.6m-1.9 2.7l.6 1.1m-1.8 2.1l.5 .7m-1.8 1.4l.6 .2m-1.8 .7l.5-.4"/><path class="s" d="M72.6 -135.3L72 -136.6M88.9 -91.7L88.4 -92.2M116.6 -122.6L116 -123.4M136.7 -60.3L136.1 -61.2M70.8 -139.7L72 -136.6M134.8 -63.4L136.1 -61.2"/></g>
<g transform="translate(55.4 261.4)"><path class="fgL" d="M37.4 -30.1l2.5-.9 2.5-5.7 2.5-9.6 2.5-12.6 2.5-14.5 2.6-15.2 2.5-14.7 2.5-13.3 2.5-10.9 2.5-8 2.5-4.7 2.5-1.3 2.5 1.8 2.6 4.5 2.5 6.4 2.5 7.7 2.5 8.1 2.5 7.6 2.5 6.5 2.5 4.7 2.5 2.6 2.5 .3 2.6-1.8 2.5-3.8 2.5-5.1 2.5-5.9 2.5-6 2.5-5.2 2.5-3.8 2.5-1.9 2.6 .5 2.5 3 2.5 5.4 2.5 7.5 2.5 9.1 2.5 10 2.5 9.9 2.5 8.9 2.6 7.1 2.5 4.4 2.5 1.1 2.5-2.7 2.5-6.7 2.5-10.3 2.5-13.6 2.5-16.2 2.6-17.5 2.5-17.9 2.5-16.8 2.5-14.4-.6-3.7-2.5 13.9-2.5 16.5-2.5 17.8-2.5 17.7-2.5 16.5-2.5 14.1-2.6 11-2.5 7.2-2.5 3.4-2.5-.5-2.5-3.9-2.5-6.7-2.5-8.8-2.5-9.8-2.5-10-2.6-9.3-2.5-7.7-2.5-5.7-2.5-3.3-2.5-.8-2.5 1.7-2.5 3.6-2.5 5.2-2.6 6-2.5 6-2.5 5.4-2.5 4-2.5 2.1-2.5-.1-2.5-2.4-2.5-4.6-2.6-6.4-2.5-7.8-2.5-8.3-2.5-8.1-2.5-6.9-2.5-5-2.5-2.4-2.5 .8-2.5 4.2-2.6 7.6-2.5 10.7-2.5 13.2-2.5 15-2.5 15.6-2.5 15.1-2.5 13.3-2.5 10.6-2.6 6.6-2.5 1.9z"/><path class="r" d="M36.8 -29.5l1.3-.3 1.2-1.6 1.3-2.8 1.3-3.8 1.2-4.9 1.3-5.7 1.2-6.4 1.3-6.9 1.2-7.4 1.3-7.7 1.2-7.8 1.3-7.8 1.3-7.6 1.2-7.4 1.3-6.8 1.2-6.4 1.3-5.7 1.2-5 1.3-4.2 1.3-3.4 1.2-2.5 1.3-1.7 1.2-.8 1.3 0 1.2 .8 1.3 1.6 1.2 2.2 1.3 2.8 1.3 3.3 1.2 3.6 1.3 4 1.2 4.1 1.3 4.2 1.2 4.1 1.3 4 1.2 3.8 1.3 3.4 1.3 3 1.2 2.6 1.3 2 1.2 1.5 1.3 .9 1.2 .4 1.3-.3 1.3-.8 1.2-1.3 1.3-1.8 1.2-2.2 1.3-2.6 1.2-2.8 1.3-3 1.2-3 1.3-3.1 1.3-2.9 1.2-2.7 1.3-2.5 1.2-2 1.3-1.6 1.2-1.1 1.3-.6 1.2 .1 1.3 .7 1.3 1.3 1.2 2 1.3 2.5 1.2 3.2 1.3 3.6 1.2 4.1 1.3 4.5 1.3 4.8 1.2 5 1.3 5 1.2 5 1.3 4.8 1.2 4.6 1.3 4.2 1.2 3.6 1.3 3.1 1.3 2.3 1.2 1.6 1.3 .7 1.2-.2 1.3-1.2 1.2-2.2 1.3-3.1 1.2-4.1 1.3-5.1 1.3-5.9 1.2-6.7 1.3-7.4 1.2-8 1.3-8.5 1.2-8.8 1.3-8.9 1.3-9 1.2-8.8 1.3-8.5 1.2-8 1.3-7.4 1.2-6.5"/><path class="c" d="M162.4 -177.7m0 0l.6 3.7m-1.8 2.8l.5 4m-1.8 3.4l.6 4.2m-1.8 3.8l.5 4.4m-1.8 4.1l.6 4.5m-1.8 4.3l.5 4.6m-1.8 4.4l.6 4.6m-1.9 4.3l.6 4.6m-1.8 4.2l.5 4.4m-1.8 4.1l.6 4.2m-1.8 3.8l.5 4.1m-1.8 3.3l.6 3.8m-1.8 2.9l.5 3.6m-1.8 2.3l.6 3.3m-1.9 1.8l.6 2.9m-1.8 1.2l.5 2.6m-1.8 .5l.6 2.4m-1.8-.2l.5 2m-1.8-.8l.6 1.7m-1.8-1.5l.5 1.4m-1.8-2.1l.6 1.1m-1.8-2.7l.5 .9m-1.8-3.2l.6 .6m-1.9-3.7l.6 .5m-1.8-4.1l.5 .2m-1.8-4.4l.6 .1m-1.8-4.7l.5 .1m-1.8-4.9l.6 0m-1.8-5l.5 0m-1.8-5l.6-.1m-1.8-4.9l.5 0m-1.8-4.8l.6 .1m-1.9-4.6l.6 .2m-1.8-4.3l.5 .3m-1.8-3.9l.6 .4m-1.8-3.6l.5 .6m-1.8-3.1l.6 .7m-1.8-2.7l.5 .9m-1.8-2.2l.6 1m-1.9-1.7l.6 1.1m-1.8-1.2l.5 1.3m-1.8-.7l.6 1.4m-1.8-.3l.5 1.5m-1.8 .1l.6 1.6m-1.8 .4l.5 1.7m-1.8 .8l.6 1.7m-1.8 1l.5 1.7m-1.8 1.2l.6 1.7m-1.9 1.4l.6 1.7m-1.8 1.3l.5 1.7m-1.8 1.3l.6 1.6m-1.8 1.2l.5 1.5m-1.8 1.1l.6 1.3m-1.8 .9l.5 1.2m-1.8 .6l.6 1.1m-1.8 .2l.5 1m-1.8-.2l.5 .8m-1.8-.5l.6 .7m-1.8-1.1l.5 .6m-1.8-1.5l.6 .5m-1.8-2l.5 .4m-1.8-2.4l.6 .3m-1.8-2.9l.5 .3m-1.8-3.3l.6 .2m-1.9-3.6l.6 .2m-1.8-4l.5 .3m-1.8-4.3l.6 .4m-1.8-4.5l.5 .5m-1.8-4.7l.6 .6m-1.8-4.7l.5 .8m-1.8-4.8l.6 1m-1.8-4.6l.5 1.2m-1.8-4.5l.6 1.5m-1.9-4.3l.6 1.7m-1.8-3.9l.5 2m-1.8-3.6l.6 2.3m-1.8-3.1l.5 2.6m-1.8-2.6l.6 2.9m-1.8-2.1l.5 3.1m-1.8-1.4l.6 3.4m-1.8-.9l.5 3.6m-1.8-.2l.5 3.8m-1.8 .4l.6 4m-1.8 1l.5 4.1m-1.8 1.6l.6 4.2m-1.8 2.2l.5 4.2m-1.8 2.6l.6 4.3m-1.8 3.1l.5 4.1m-1.8 3.5l.6 4m-1.9 3.8l.6 3.8m-1.8 4l.5 3.6m-1.8 4.1l.6 3.3m-1.8 4.1l.5 3m-1.8 3.9l.6 2.7m-1.8 3.7l.5 2.3m-1.8 3.4l.6 1.8m-1.8 3.1l.5 1.3m-1.8 2.5l.6 .9m-1.9 1.9l.6 .4m-1.8 1.2l.5-.1m-1.8 .4l.6-.6"/><path class="s" d="M38.6 -29.9L38.1 -29.8M72.6 -135.2L72 -136.7M88.9 -92.6L88.3 -93.1M116.5 -123.1L116 -124M136.6 -60.8L136.1 -61.7M36.8 -29.5L38.1 -29.8"/></g>
<g transform="translate(55.9 262.8)"><path class="fgL" d="M37.4 -32.4l2.6 .1 2.5-4.7 2.5-8.6 2.5-11.8 2.5-13.8 2.5-14.7 2.5-14.5 2.5-13.3 2.5-11.1 2.6-8.3 2.5-5.1 2.5-1.9 2.5 1.2 2.5 3.9 2.5 5.9 2.5 7.3 2.5 7.8 2.6 7.5 2.5 6.4 2.5 4.8 2.5 2.8 2.5 .6 2.5-1.6 2.5-3.5 2.5-4.9 2.6-5.8 2.5-5.9 2.5-5.2 2.5-4 2.5-2.1 2.5 .2 2.5 2.7 2.5 5.1 2.5 7.3 2.6 8.9 2.5 9.9 2.5 9.9 2.5 9.2 2.5 7.5 2.5 4.8 2.5 1.7 2.5-2.1 2.6-6 2.5-9.7 2.5-13.1 2.5-15.7 2.5-17.4 2.5-17.8 2.5-17.1 2.5-14.9-.5-3.9-2.5 14.4-2.5 16.8-2.5 17.9-2.6 17.5-2.5 16.2-2.5 13.6-2.5 10.3-2.5 6.7-2.5 2.7-2.5-1.1-2.5-4.4-2.6-7.1-2.5-8.9-2.5-9.9-2.5-10-2.5-9.1-2.5-7.5-2.5-5.4-2.5-3-2.6-.5-2.5 1.9-2.5 3.8-2.5 5.2-2.5 6-2.5 5.9-2.5 5.1-2.5 3.8-2.6 1.8-2.5-.3-2.5-2.6-2.5-4.7-2.5-6.5-2.5-7.6-2.5-8.1-2.5-7.7-2.5-6.4-2.6-4.5-2.5-1.8-2.5 1.3-2.5 4.7-2.5 8-2.5 10.9-2.5 13.3-2.5 14.7-2.6 15.2-2.5 14.5-2.5 12.6-2.5 9.6-2.5 5.7-2.5 .9z"/><path class="r" d="M36.9 -31.5l1.2 .2 1.3-1.1 1.3-2.3 1.2-3.4 1.3-4.4 1.2-5.2 1.3-6 1.2-6.6 1.3-7.1 1.2-7.4 1.3-7.6 1.3-7.6 1.2-7.5 1.3-7.2 1.2-6.9 1.3-6.4 1.2-5.8 1.3-5.1 1.2-4.4 1.3-3.6 1.3-2.7 1.2-2 1.3-1 1.2-.3 1.3 .5 1.2 1.3 1.3 1.9 1.3 2.6 1.2 3 1.3 3.4 1.2 3.8 1.3 3.9 1.2 4.1 1.3 4 1.2 3.9 1.3 3.7 1.3 3.4 1.2 3.1 1.3 2.6 1.2 2.1 1.3 1.6 1.2 1 1.3 .5 1.2-.2 1.3-.6 1.3-1.2 1.2-1.7 1.3-2.1 1.2-2.4 1.3-2.7 1.2-2.9 1.3-3 1.3-3.1 1.2-2.9 1.3-2.7 1.2-2.5 1.3-2.1 1.2-1.7 1.3-1.2 1.2-.7 1.3-.1 1.3 .6 1.2 1.2 1.3 1.8 1.2 2.4 1.3 3 1.2 3.5 1.3 4 1.3 4.4 1.2 4.7 1.3 4.9 1.2 5.1 1.3 5 1.2 4.9 1.3 4.6 1.2 4.3 1.3 3.9 1.3 3.2 1.2 2.6 1.3 1.8 1.2 1 1.3 .1 1.2-.9 1.3-1.8 1.2-2.9 1.3-3.8 1.3-4.7 1.2-5.6 1.3-6.5 1.2-7.1 1.3-7.9 1.2-8.3 1.3-8.6 1.3-8.9 1.2-9 1.3-8.9 1.2-8.6 1.3-8.2 1.2-7.6 1.3-6.8"/><path class="c" d="M162.5 -175.4m0 0l.5 3.9m-1.8 2.9l.6 4.2m-1.8 3.4l.5 4.4m-1.8 3.8l.6 4.6m-1.8 4l.5 4.7m-1.8 4.2l.6 4.7m-1.8 4.3l.5 4.6m-1.8 4.3l.5 4.5m-1.8 4.1l.6 4.5m-1.8 3.8l.5 4.3m-1.8 3.6l.6 4m-1.8 3.1l.5 3.8m-1.8 2.7l.6 3.5m-1.8 2.1l.5 3.2m-1.8 1.5l.6 2.9m-1.9 .9l.6 2.6m-1.8 .3l.5 2.2m-1.8-.4l.6 1.9m-1.8-1l.5 1.6m-1.8-1.7l.6 1.3m-1.8-2.3l.5 1m-1.8-2.8l.6 .8m-1.8-3.4l.5 .6m-1.8-3.8l.6 .3m-1.9-4.2l.6 .2m-1.8-4.5l.5 .1m-1.8-4.7l.6-.1m-1.8-4.8l.5-.1m-1.8-4.9l.6-.1m-1.8-5l.5 0m-1.8-4.9l.6 0m-1.8-4.7l.5 .1m-1.8-4.5l.5 .2m-1.8-4.2l.6 .3m-1.8-3.8l.5 .4m-1.8-3.4l.6 .6m-1.8-3l.5 .7m-1.8-2.5l.6 .9m-1.8-2.1l.5 1m-1.8-1.6l.6 1.2m-1.9-1.1l.6 1.3m-1.8-.6l.5 1.4m-1.8-.2l.6 1.5m-1.8 .2l.5 1.6m-1.8 .5l.6 1.7m-1.8 .8l.5 1.7m-1.8 1l.6 1.7m-1.8 1.2l.5 1.7m-1.8 1.4l.6 1.6m-1.9 1.4l.6 1.5m-1.8 1.4l.5 1.5m-1.8 1.2l.6 1.4m-1.8 1l.5 1.3m-1.8 .8l.6 1.1m-1.8 .6l.5 1m-1.8 .2l.6 .8m-1.9-.2l.6 .8m-1.8-.6l.5 .6m-1.8-1.1l.6 .5m-1.8-1.5l.5 .4m-1.8-2l.6 .3m-1.8-2.4l.5 .2m-1.8-2.8l.6 .2m-1.8-3.3l.5 .3m-1.8-3.7l.6 .3m-1.9-4l.6 .3m-1.8-4.2l.5 .4m-1.8-4.4l.6 .5m-1.8-4.6l.5 .7m-1.8-4.6l.6 .9m-1.8-4.7l.5 1.1m-1.8-4.5l.6 1.3m-1.8-4.3l.5 1.6m-1.8-4.2l.6 1.9m-1.9-3.8l.6 2.2m-1.8-3.5l.5 2.5m-1.8-3l.6 2.8m-1.8-2.5l.5 3m-1.8-2l.6 3.4m-1.8-1.4l.5 3.5m-1.8-.8l.6 3.8m-1.9-.2l.6 4m-1.8 .4l.5 4.1m-1.8 1l.6 4.3m-1.8 1.5l.5 4.3m-1.8 2.1l.6 4.3m-1.8 2.6l.5 4.3m-1.8 2.9l.6 4.2m-1.8 3.3l.5 4.1m-1.8 3.5l.6 3.9m-1.9 3.7l.6 3.6m-1.8 3.8l.5 3.3m-1.8 3.8l.6 2.9m-1.8 3.7l.5 2.5m-1.8 3.5l.6 2.1m-1.8 3.1l.5 1.7m-1.8 2.7l.6 1.1m-1.8 2.3l.5 .6m-1.8 1.7l.6 .1m-1.9 1l.6-.4m-1.8 .2l.5-.9"/><path class="s" d="M38.7 -31.7L38.1 -31.3M73.9 -132.3L73.3 -133.6M90.2 -92.5L89.6 -93M117.8 -122L117.3 -122.7M136.7 -61.4L136.1 -62.2M72.1 -136.6L73.3 -133.6M88.4 -94L89.6 -93M116 -124.5L117.3 -122.7"/></g>
<g transform="translate(56.5 264.2)"><path class="fgL" d="M37.4 -35l2.5 1.1 2.5-3.5 2.5-7.7 2.5-10.8 2.6-13.1 2.5-14.2 2.5-14.2 2.5-13.2 2.5-11.3 2.5-8.6 2.5-5.6 2.5-2.5 2.5 .6 2.6 3.3 2.5 5.4 2.5 6.8 2.5 7.5 2.5 7.3 2.5 6.4 2.5 4.9 2.5 2.9 2.6 .8 2.5-1.3 2.5-3.2 2.5-4.7 2.5-5.5 2.5-5.8 2.5-5.3 2.5-4.1 2.6-2.3 2.5-.1 2.5 2.4 2.5 4.8 2.5 6.9 2.5 8.8 2.5 9.7 2.5 10 2.6 9.4 2.5 7.8 2.5 5.3 2.5 2.3 2.5-1.5 2.5-5.2 2.5-9.1 2.5-12.5 2.5-15.3 2.6-17.1 2.5-17.8 2.5-17.3 2.5-15.4-.6-4.1-2.5 14.9-2.5 17.1-2.5 17.8-2.5 17.4-2.5 15.7-2.5 13.1-2.5 9.7-2.6 6-2.5 2.1-2.5-1.7-2.5-4.8-2.5-7.5-2.5-9.2-2.5-9.9-2.5-9.9-2.6-8.9-2.5-7.3-2.5-5.1-2.5-2.7-2.5-.2-2.5 2.1-2.5 4-2.5 5.2-2.5 5.9-2.6 5.8-2.5 4.9-2.5 3.5-2.5 1.6-2.5-.6-2.5-2.8-2.5-4.8-2.5-6.4-2.6-7.5-2.5-7.8-2.5-7.3-2.5-5.9-2.5-3.9-2.5-1.2-2.5 1.9-2.5 5.1-2.6 8.3-2.5 11.1-2.5 13.3-2.5 14.5-2.5 14.7-2.5 13.8-2.5 11.8-2.5 8.6-2.5 4.7-2.6-.1z"/><path class="r" d="M36.8 -33.8l1.3 .7 1.3-.6 1.2-1.8 1.3-2.9 1.2-3.8 1.3-4.8 1.2-5.6 1.3-6.2 1.2-6.7 1.3-7.1 1.3-7.3 1.2-7.4 1.3-7.4 1.2-7.1 1.3-6.9 1.2-6.4 1.3-5.8 1.2-5.3 1.3-4.5 1.3-3.8 1.2-3 1.3-2.1 1.2-1.4 1.3-.5 1.2 .2 1.3 1 1.3 1.6 1.2 2.3 1.3 2.7 1.2 3.2 1.3 3.6 1.2 3.7 1.3 3.9 1.2 3.9 1.3 3.8 1.3 3.7 1.2 3.4 1.3 3 1.2 2.6 1.3 2.2 1.2 1.7 1.3 1.1 1.2 .6 1.3 0 1.3-.6 1.2-1 1.3-1.6 1.2-1.9 1.3-2.3 1.2-2.6 1.3-2.9 1.3-2.9 1.2-3 1.3-2.9 1.2-2.7 1.3-2.5 1.2-2.2 1.3-1.8 1.2-1.3 1.3-.8 1.3-.2 1.2 .4 1.3 1.1 1.2 1.6 1.3 2.3 1.2 2.8 1.3 3.4 1.2 3.9 1.3 4.3 1.3 4.6 1.2 4.9 1.3 5 1.2 5 1.3 4.9 1.2 4.8 1.3 4.4 1.3 4 1.2 3.5 1.3 2.8 1.2 2 1.3 1.3 1.2 .4 1.3-.6 1.2-1.5 1.3-2.5 1.3-3.5 1.2-4.4 1.3-5.3 1.2-6.2 1.3-6.9 1.2-7.6 1.3-8.1 1.2-8.6 1.3-8.8 1.3-8.9 1.2-8.9 1.3-8.7 1.2-8.4 1.3-7.8 1.2-7.1"/><path class="c" d="M162.4 -172.9m0 0l.6 4.1m-1.8 3l.5 4.4m-1.8 3.4l.6 4.6m-1.8 3.8l.5 4.7m-1.8 4l.6 4.8m-1.8 4.1l.5 4.8m-1.8 4.1l.6 4.8m-1.9 4l.6 4.7m-1.8 3.9l.5 4.5m-1.8 3.6l.6 4.3m-1.8 3.3l.5 4.1m-1.8 2.8l.6 3.8m-1.8 2.4l.5 3.5m-1.8 1.8l.6 3.2m-1.8 1.2l.5 2.9m-1.8 .6l.6 2.5m-1.9 0l.6 2.1m-1.8-.6l.5 1.8m-1.8-1.2l.6 1.5m-1.8-1.9l.5 1.2m-1.8-2.5l.6 .9m-1.8-2.9l.5 .6m-1.8-3.4l.6 .4m-1.8-3.9l.5 .2m-1.8-4.2l.6 .1m-1.9-4.5l.6 0m-1.8-4.8l.5-.1m-1.8-4.8l.6-.1m-1.8-4.9l.5-.2m-1.8-4.8l.6-.1m-1.8-4.8l.5 0m-1.8-4.6l.6 0m-1.9-4.3l.6 .1m-1.8-4l.5 .3m-1.8-3.7l.6 .5m-1.8-3.3l.5 .6m-1.8-2.9l.6 .8m-1.8-2.4l.5 .9m-1.8-2l.6 1.1m-1.8-1.5l.5 1.3m-1.8-1.1l.6 1.4m-1.9-.6l.6 1.5m-1.8-.2l.5 1.6m-1.8 .2l.6 1.7m-1.8 .5l.5 1.7m-1.8 .8l.6 1.7m-1.8 1l.5 1.8m-1.8 1.1l.6 1.7m-1.8 1.3l.5 1.7m-1.8 1.2l.6 1.6m-1.9 1.3l.6 1.4m-1.8 1.2l.5 1.3m-1.8 1l.6 1.2m-1.8 .7l.5 1.1m-1.8 .5l.6 .9m-1.8 .1l.5 .8m-1.8-.2l.6 .6m-1.9-.6l.6 .5m-1.8-1.1l.5 .4m-1.8-1.5l.6 .3m-1.8-2l.5 .3m-1.8-2.5l.6 .2m-1.8-2.8l.5 .2m-1.8-3.2l.6 .1m-1.8-3.5l.5 .2m-1.8-3.9l.6 .3m-1.9-4.1l.6 .4m-1.8-4.3l.5 .5m-1.8-4.4l.6 .7m-1.8-4.4l.5 .9m-1.8-4.5l.6 1.2m-1.8-4.4l.5 1.5m-1.8-4.2l.6 1.7m-1.8-4l.5 2.1m-1.8-3.7l.5 2.3m-1.8-3.3l.6 2.6m-1.8-2.8l.5 2.9m-1.8-2.4l.6 3.2m-1.8-1.8l.5 3.5m-1.8-1.4l.6 3.8m-1.8-.8l.5 4m-1.8-.2l.6 4.2m-1.9 .3l.6 4.3m-1.8 1l.5 4.4m-1.8 1.4l.6 4.5m-1.8 1.9l.5 4.5m-1.8 2.4l.6 4.4m-1.8 2.7l.5 4.3m-1.8 3.1l.6 4.1m-1.8 3.3l.5 3.9m-1.8 3.4l.6 3.6m-1.9 3.5l.6 3.2m-1.8 3.5l.5 2.9m-1.8 3.3l.6 2.5m-1.8 3.1l.5 1.9m-1.8 2.9l.6 1.4m-1.8 2.4l.5 1m-1.8 1.9l.6 .4m-1.8 1.4l.5-.2m-1.8 .8l.5-.7m-1.8 0l.6-1.2"/><path class="s" d="M39.9 -33.9L39.4 -33.7M73.8 -132.2L73.3 -133.7M90.1 -93.5L89.6 -93.9M117.8 -122.6L117.2 -123.4M137.9 -59.9L137.3 -60.8M38.1 -33.1L39.4 -33.7M136.1 -62.8L137.3 -60.8"/></g>
<g transform="translate(57 265.5)"><path class="fgL" d="M37.4 -37.8l2.6 2.2 2.5-2.4 2.5-6.6 2.5-9.9 2.5-12.3 2.5-13.6 2.5-13.9 2.5-13 2.6-11.4 2.5-8.9 2.5-6.1 2.5-3.1 2.5 0 2.5 2.7 2.5 4.8 2.5 6.3 2.6 7.1 2.5 7.1 2.5 6.3 2.5 4.9 2.5 3.1 2.5 1.1 2.5-1 2.5-2.9 2.5-4.5 2.6-5.3 2.5-5.7 2.5-5.3 2.5-4.2 2.5-2.5 2.5-.3 2.5 2 2.5 4.4 2.6 6.7 2.5 8.5 2.5 9.6 2.5 10.1 2.5 9.5 2.5 8.1 2.5 5.8 2.5 2.8 2.6-.7 2.5-4.6 2.5-8.3 2.5-11.9 2.5-14.8 2.5-16.8 2.5-17.8 2.5-17.4 2.5-15.8-.5-4.4-2.5 15.4-2.5 17.3-2.5 17.8-2.6 17.1-2.5 15.3-2.5 12.5-2.5 9.1-2.5 5.2-2.5 1.5-2.5-2.3-2.5-5.3-2.5-7.8-2.6-9.4-2.5-10-2.5-9.7-2.5-8.8-2.5-6.9-2.5-4.8-2.5-2.4-2.5 .1-2.6 2.3-2.5 4.1-2.5 5.3-2.5 5.8-2.5 5.5-2.5 4.7-2.5 3.2-2.5 1.3-2.6-.8-2.5-2.9-2.5-4.9-2.5-6.4-2.5-7.3-2.5-7.5-2.5-6.8-2.5-5.4-2.6-3.3-2.5-.6-2.5 2.5-2.5 5.6-2.5 8.6-2.5 11.3-2.5 13.2-2.5 14.2-2.5 14.2-2.6 13.1-2.5 10.8-2.5 7.7-2.5 3.5-2.5-1.1z"/><path class="r" d="M36.9 -36.3l1.2 1.2 1.3-.1 1.3-1.2 1.2-2.3 1.3-3.4 1.2-4.3 1.3-5 1.2-5.8 1.3-6.4 1.3-6.7 1.2-7 1.3-7.2 1.2-7.2 1.3-7 1.2-6.8 1.3-6.4 1.2-5.9 1.3-5.4 1.3-4.6 1.2-4 1.3-3.2 1.2-2.4 1.3-1.7 1.2-.8 1.3-.1 1.2 .7 1.3 1.4 1.3 1.9 1.2 2.5 1.3 2.9 1.2 3.3 1.3 3.5 1.2 3.7 1.3 3.8 1.3 3.7 1.2 3.6 1.3 3.3 1.2 3.1 1.3 2.6 1.2 2.3 1.3 1.7 1.2 1.2 1.3 .7 1.3 .1 1.2-.4 1.3-.9 1.2-1.4 1.3-1.8 1.2-2.2 1.3-2.5 1.3-2.7 1.2-2.8 1.3-3 1.2-2.8 1.3-2.8 1.2-2.5 1.3-2.2 1.2-1.9 1.3-1.4 1.3-.9 1.2-.3 1.3 .2 1.2 .9 1.3 1.5 1.2 2.1 1.3 2.7 1.2 3.2 1.3 3.7 1.3 4.2 1.2 4.6 1.3 4.8 1.2 4.9 1.3 5.1 1.2 4.9 1.3 4.9 1.3 4.5 1.2 4.1 1.3 3.7 1.2 3 1.3 2.3 1.2 1.6 1.3 .7 1.2-.3 1.3-1.2 1.3-2.1 1.2-3.1 1.3-4.1 1.2-5 1.3-5.9 1.2-6.6 1.3-7.4 1.2-7.9 1.3-8.4 1.3-8.7 1.2-8.9 1.3-8.9 1.2-8.8 1.3-8.5 1.2-8 1.3-7.4"/><path class="c" d="M162.5 -170.1m0 0l.5 4.4m-1.8 3l.6 4.6m-1.8 3.4l.5 4.8m-1.8 3.7l.6 4.9m-1.8 3.9l.5 4.9m-1.8 4l.6 4.9m-1.8 4l.5 4.9m-1.8 3.8l.6 4.8m-1.9 3.6l.6 4.6m-1.8 3.3l.5 4.4m-1.8 3l.6 4.1m-1.8 2.5l.5 3.8m-1.8 2.1l.6 3.5m-1.8 1.5l.5 3.1m-1.8 1l.6 2.7m-1.8 .4l.5 2.4m-1.8-.3l.6 2.1m-1.9-.9l.6 1.7m-1.8-1.4l.5 1.3m-1.8-2l.6 1m-1.8-2.6l.5 .8m-1.8-3.1l.6 .5m-1.8-3.5l.5 .3m-1.8-4l.6 .2m-1.8-4.3l.5 0m-1.8-4.5l.5-.2m-1.8-4.7l.6-.1m-1.8-4.8l.5-.3m-1.8-4.8l.6-.2m-1.8-4.7l.5-.2m-1.8-4.6l.6-.1m-1.8-4.5l.5 .1m-1.8-4.3l.6 .2m-1.9-3.9l.6 .3m-1.8-3.5l.5 .4m-1.8-3.1l.6 .6m-1.8-2.7l.5 .8m-1.8-2.3l.6 1m-1.8-1.9l.5 1.2m-1.8-1.4l.6 1.3m-1.8-1l.5 1.4m-1.8-.5l.6 1.5m-1.9-.1l.6 1.6m-1.8 .3l.5 1.7m-1.8 .5l.6 1.7m-1.8 .8l.5 1.8m-1.8 1l.6 1.7m-1.8 1.1l.5 1.7m-1.8 1.3l.6 1.6m-1.8 1.2l.5 1.5m-1.8 1.2l.5 1.4m-1.8 1.1l.6 1.3m-1.8 .9l.5 1.2m-1.8 .6l.6 1m-1.8 .4l.5 .9m-1.8 0l.6 .7m-1.8-.3l.5 .6m-1.8-.7l.6 .4m-1.9-1.1l.6 .3m-1.8-1.5l.5 .2m-1.8-1.9l.6 .1m-1.8-2.4l.5 .2m-1.8-2.8l.6 .1m-1.8-3.2l.5 .2m-1.8-3.5l.6 .2m-1.8-3.8l.5 .3m-1.8-4l.6 .4m-1.9-4.2l.6 .6m-1.8-4.3l.5 .8m-1.8-4.3l.6 1m-1.8-4.3l.5 1.3m-1.8-4.2l.6 1.5m-1.8-4l.5 1.9m-1.8-3.8l.6 2.1m-1.9-3.5l.6 2.5m-1.8-3.2l.5 2.9m-1.8-2.8l.6 3.1m-1.8-2.3l.5 3.5m-1.8-1.8l.6 3.7m-1.8-1.3l.5 3.9m-1.8-.7l.6 4.2m-1.8-.2l.5 4.3m-1.8 .3l.6 4.5m-1.9 .9l.6 4.5m-1.8 1.4l.5 4.6m-1.8 1.8l.6 4.5m-1.8 2.3l.5 4.4m-1.8 2.6l.6 4.3m-1.8 2.9l.5 4.1m-1.8 3.1l.6 3.8m-1.8 3.2l.5 3.5m-1.8 3.2l.6 3.2m-1.9 3.2l.6 2.7m-1.8 3.1l.5 2.2m-1.8 2.8l.6 1.8m-1.8 2.5l.5 1.3m-1.8 2.1l.6 .7m-1.8 1.6l.5 .1m-1.8 1.1l.6-.4m-1.9 .5l.6-1m-1.8-.2l.5-1.5"/><path class="s" d="M40 -35.6L39.4 -35.2M75.1 -129.3L74.6 -130.6M90.2 -94.5L89.6 -94.8M117.8 -123.1L117.3 -123.9M137.9 -60.4L137.4 -61.2M73.3 -133.5L74.6 -130.6"/></g>
<g transform="translate(57.6 266.9)"><path class="fgL" d="M37.4 -41l2.5 3.3 2.5-1.3 2.5-5.4 2.5-8.9 2.6-11.4 2.5-13 2.5-13.4 2.5-12.9 2.5-11.5 2.5-9.2 2.5-6.6 2.5-3.6 2.6-.7 2.5 2 2.5 4.3 2.5 5.8 2.5 6.7 2.5 6.8 2.5 6.2 2.5 4.9 2.6 3.3 2.5 1.3 2.5-.7 2.5-2.6 2.5-4.2 2.5-5.1 2.5-5.6 2.5-5.2 2.6-4.3 2.5-2.7 2.5-.7 2.5 1.7 2.5 4.1 2.5 6.4 2.5 8.2 2.5 9.5 2.5 10 2.6 9.7 2.5 8.4 2.5 6.3 2.5 3.4 2.5 0 2.5-3.8 2.5-7.7 2.5-11.2 2.6-14.3 2.5-16.4 2.5-17.7 2.5-17.5 2.5-16.3-.6-4.5-2.5 15.8-2.5 17.4-2.5 17.8-2.5 16.8-2.5 14.8-2.5 11.9-2.5 8.3-2.5 4.6-2.6 .7-2.5-2.8-2.5-5.8-2.5-8.1-2.5-9.5-2.5-10.1-2.5-9.6-2.5-8.5-2.6-6.7-2.5-4.4-2.5-2-2.5 .3-2.5 2.5-2.5 4.2-2.5 5.3-2.5 5.7-2.6 5.3-2.5 4.5-2.5 2.9-2.5 1-2.5-1.1-2.5-3.1-2.5-4.9-2.5-6.3-2.5-7.1-2.6-7.1-2.5-6.3-2.5-4.8-2.5-2.7-2.5 0-2.5 3.1-2.5 6.1-2.5 8.9-2.6 11.4-2.5 13-2.5 13.9-2.5 13.6-2.5 12.3-2.5 9.9-2.5 6.6-2.5 2.4-2.6-2.2z"/><path class="r" d="M36.8 -39.2l1.3 1.7 1.3 .5 1.2-.7 1.3-1.7 1.2-2.8 1.3-3.8 1.2-4.6 1.3-5.3 1.3-5.9 1.2-6.4 1.3-6.7 1.2-6.9 1.3-7 1.2-6.9 1.3-6.7 1.2-6.3 1.3-6 1.3-5.4 1.2-4.8 1.3-4.1 1.2-3.5 1.3-2.6 1.2-1.9 1.3-1.2 1.2-.3 1.3 .3 1.3 1 1.2 1.7 1.3 2.1 1.2 2.7 1.3 3 1.2 3.3 1.3 3.5 1.3 3.6 1.2 3.6 1.3 3.5 1.2 3.3 1.3 3 1.2 2.7 1.3 2.2 1.2 1.8 1.3 1.3 1.3 .8 1.2 .3 1.3-.3 1.2-.7 1.3-1.3 1.2-1.6 1.3-2.1 1.2-2.4 1.3-2.6 1.3-2.7 1.2-2.9 1.3-2.8 1.2-2.7 1.3-2.6 1.2-2.2 1.3-2 1.3-1.5 1.2-1 1.3-.4 1.2 .1 1.3 .7 1.2 1.3 1.3 1.9 1.2 2.5 1.3 3.1 1.3 3.6 1.2 4.1 1.3 4.4 1.2 4.7 1.3 4.9 1.2 5 1.3 5.1 1.2 4.8 1.3 4.7 1.3 4.3 1.2 3.8 1.3 3.2 1.2 2.6 1.3 1.8 1.2 1 1.3 .1 1.3-.8 1.2-1.8 1.3-2.8 1.2-3.7 1.3-4.6 1.2-5.6 1.3-6.3 1.2-7.1 1.3-7.7 1.3-8.2 1.2-8.6 1.3-8.9 1.2-8.9 1.3-8.8 1.2-8.6 1.3-8.2 1.2-7.6"/><path class="c" d="M162.4 -167.1m0 0l.6 4.5m-1.8 3.1l.5 4.8m-1.8 3.4l.6 5m-1.8 3.6l.5 5.1m-1.8 3.7l.6 5.1m-1.8 3.8l.5 5.1m-1.8 3.8l.6 5m-1.8 3.6l.5 4.8m-1.8 3.4l.6 4.6m-1.9 3.1l.6 4.4m-1.8 2.7l.5 4.1m-1.8 2.2l.6 3.8m-1.8 1.8l.5 3.4m-1.8 1.2l.6 3.1m-1.8 .6l.5 2.8m-1.8 0l.6 2.3m-1.8-.5l.5 2m-1.8-1.2l.6 1.6m-1.9-1.7l.6 1.3m-1.8-2.3l.5 1m-1.8-2.8l.6 .7m-1.8-3.3l.5 .4m-1.8-3.6l.6 .2m-1.8-4l.5 0m-1.8-4.3l.6-.1m-1.9-4.6l.6-.2m-1.8-4.6l.5-.3m-1.8-4.8l.6-.2m-1.8-4.8l.5-.2m-1.8-4.7l.6-.2m-1.8-4.5l.5-.1m-1.8-4.3l.6 0m-1.8-4.1l.5 .2m-1.8-3.8l.6 .3m-1.9-3.4l.6 .5m-1.8-3l.5 .7m-1.8-2.6l.6 .8m-1.8-2.1l.5 1m-1.8-1.7l.6 1.1m-1.8-1.2l.5 1.3m-1.8-.9l.6 1.5m-1.8-.5l.5 1.6m-1.8-.1l.6 1.7m-1.9 .3l.6 1.7m-1.8 .5l.5 1.8m-1.8 .8l.6 1.7m-1.8 1l.5 1.7m-1.8 1.1l.6 1.7m-1.8 1.2l.5 1.6m-1.8 1.1l.6 1.5m-1.9 1.1l.6 1.4m-1.8 1l.5 1.3m-1.8 .8l.6 1.1m-1.8 .5l.5 1m-1.8 .3l.6 .8m-1.8-.1l.5 .7m-1.8-.4l.6 .5m-1.8-.8l.5 .4m-1.8-1.2l.6 .3m-1.9-1.6l.6 .2m-1.8-2l.5 .1m-1.8-2.3l.6 0m-1.8-2.7l.5 .1m-1.8-3.1l.6 .1m-1.8-3.4l.5 .2m-1.8-3.7l.6 .3m-1.8-3.9l.5 .5m-1.8-4.1l.5 .7m-1.8-4.2l.6 .9m-1.8-4.2l.5 1.1m-1.8-4.1l.6 1.4m-1.8-4.1l.5 1.7m-1.8-3.8l.6 1.9m-1.8-3.6l.5 2.3m-1.8-3.3l.6 2.6m-1.9-2.9l.6 2.9m-1.8-2.6l.5 3.3m-1.8-2.1l.6 3.6m-1.8-1.7l.5 3.8m-1.8-1.2l.6 4.2m-1.8-.7l.5 4.3m-1.8-.2l.6 4.5m-1.8 .3l.5 4.6m-1.8 .8l.6 4.7m-1.9 1.3l.6 4.7m-1.8 1.6l.5 4.7m-1.8 2l.6 4.6m-1.8 2.3l.5 4.4m-1.8 2.6l.6 4.1m-1.8 2.8l.5 3.8m-1.8 2.9l.6 3.5m-1.8 2.9l.5 3.1m-1.8 2.8l.5 2.6m-1.8 2.7l.6 2.2m-1.8 2.4l.5 1.6m-1.8 2.2l.6 1m-1.8 1.8l.5 .4m-1.8 1.3l.6-.1m-1.8 .8l.5-.7m-1.8 .2l.6-1.3m-1.9-.4l.6-1.8"/><path class="s" d="M41.2 -37.8L40.6 -37.7M75.1 -129.3L74.5 -130.7M91.4 -94.7L90.9 -95.1M117.8 -123.7L117.2 -124.5M139.1 -59L138.6 -60M39.4 -37L40.6 -37.7M89.6 -95.9L90.9 -95.1M137.3 -61.8L138.6 -60"/></g>
<g transform="translate(58.1 268.3)"><path class="fgL" d="M37.5 -44.5l2.5 4.4 2.5 0 2.5-4.3 2.5-7.7 2.5-10.5 2.5-12.3 2.5-13 2.6-12.7 2.5-11.5 2.5-9.5 2.5-7 2.5-4.2 2.5-1.4 2.5 1.3 2.5 3.6 2.5 5.3 2.6 6.2 2.5 6.5 2.5 6.1 2.5 5 2.5 3.4 2.5 1.5 2.5-.4 2.5-2.3 2.6-3.8 2.5-5 2.5-5.4 2.5-5.2 2.5-4.3 2.5-2.9 2.5-1 2.5 1.4 2.6 3.7 2.5 6 2.5 8 2.5 9.3 2.5 10 2.5 9.8 2.5 8.7 2.5 6.7 2.5 4 2.6 .7 2.5-3 2.5-6.9 2.5-10.5 2.5-13.7 2.5-16.1 2.5-17.4 2.5-17.7 2.6-16.6-.6-4.8-2.5 16.3-2.5 17.5-2.5 17.7-2.5 16.4-2.6 14.3-2.5 11.2-2.5 7.7-2.5 3.8-2.5 0-2.5-3.4-2.5-6.3-2.5-8.4-2.6-9.7-2.5-10-2.5-9.5-2.5-8.2-2.5-6.4-2.5-4.1-2.5-1.7-2.5 .7-2.5 2.7-2.6 4.3-2.5 5.2-2.5 5.6-2.5 5.1-2.5 4.2-2.5 2.6-2.5 .7-2.5-1.3-2.6-3.3-2.5-4.9-2.5-6.2-2.5-6.8-2.5-6.7-2.5-5.8-2.5-4.3-2.5-2-2.6 .7-2.5 3.6-2.5 6.6-2.5 9.2-2.5 11.5-2.5 12.9-2.5 13.4-2.5 13-2.6 11.4-2.5 8.9-2.5 5.4-2.5 1.3-2.5-3.3z"/><path class="r" d="M36.9 -42.4l1.3 2.2 1.2 1.1 1.3-.1 1.2-1.2 1.3-2.2 1.2-3.2 1.3-4 1.2-4.9 1.3-5.4 1.3-6 1.2-6.4 1.3-6.6 1.2-6.7 1.3-6.7 1.2-6.6 1.3-6.3 1.3-6 1.2-5.5 1.3-4.9 1.2-4.3 1.3-3.6 1.2-3 1.3-2.1 1.2-1.5 1.3-.7 1.3 0 1.2 .7 1.3 1.3 1.2 1.9 1.3 2.4 1.2 2.7 1.3 3.1 1.2 3.3 1.3 3.4 1.3 3.4 1.2 3.4 1.3 3.2 1.2 3 1.3 2.6 1.2 2.3 1.3 1.9 1.3 1.4 1.2 .9 1.3 .4 1.2-.1 1.3-.6 1.2-1.1 1.3-1.5 1.2-1.9 1.3-2.3 1.3-2.5 1.2-2.6 1.3-2.8 1.2-2.8 1.3-2.7 1.2-2.5 1.3-2.3 1.3-2 1.2-1.6 1.3-1.1 1.2-.6 1.3-.1 1.2 .6 1.3 1.1 1.2 1.8 1.3 2.3 1.3 2.9 1.2 3.5 1.3 3.9 1.2 4.3 1.3 4.6 1.2 4.9 1.3 5 1.2 5 1.3 4.9 1.3 4.8 1.2 4.4 1.3 4 1.2 3.4 1.3 2.9 1.2 2.1 1.3 1.3 1.3 .4 1.2-.4 1.3-1.5 1.2-2.3 1.3-3.4 1.2-4.3 1.3-5.2 1.2-6 1.3-6.8 1.3-7.5 1.2-8 1.3-8.4 1.2-8.8 1.3-8.9 1.2-8.8 1.3-8.7 1.2-8.4 1.3-7.9"/><path class="c" d="M162.5 -164m0 0l.6 4.8m-1.9 3.1l.6 5m-1.8 3.4l.5 5.1m-1.8 3.6l.6 5.2m-1.8 3.6l.5 5.3m-1.8 3.6l.6 5.2m-1.8 3.6l.5 5m-1.8 3.4l.6 4.9m-1.8 3.1l.5 4.7m-1.8 2.8l.6 4.4m-1.9 2.4l.6 4.1m-1.8 1.9l.5 3.8m-1.8 1.4l.6 3.4m-1.8 .9l.5 3m-1.8 .4l.6 2.6m-1.8-.3l.5 2.3m-1.8-.8l.6 1.8m-1.8-1.4l.5 1.5m-1.8-1.9l.5 1.1m-1.8-2.4l.6 .8m-1.8-2.9l.5 .5m-1.8-3.4l.6 .3m-1.8-3.7l.5 .1m-1.8-4.1l.6-.1m-1.8-4.3l.5-.2m-1.8-4.6l.6-.3m-1.9-4.6l.6-.3m-1.8-4.7l.5-.4m-1.8-4.6l.6-.3m-1.8-4.6l.5-.2m-1.8-4.4l.6-.1m-1.8-4.2l.5 0m-1.8-3.9l.6 .1m-1.8-3.6l.5 .4m-1.8-3.3l.6 .5m-1.9-2.8l.6 .7m-1.8-2.5l.5 .9m-1.8-2l.6 1m-1.8-1.6l.5 1.2m-1.8-1.1l.6 1.3m-1.8-.7l.5 1.5m-1.8-.4l.6 1.6m-1.8 0l.5 1.7m-1.8 .3l.5 1.7m-1.8 .6l.6 1.7m-1.8 .8l.5 1.8m-1.8 .9l.6 1.7m-1.8 1.1l.5 1.7m-1.8 1.1l.6 1.5m-1.8 1.1l.5 1.5m-1.8 1l.6 1.4m-1.9 .9l.6 1.2m-1.8 .7l.5 1m-1.8 .5l.6 .9m-1.8 .2l.5 .7m-1.8-.1l.6 .6m-1.8-.5l.5 .4m-1.8-.8l.6 .3m-1.8-1.2l.5 .2m-1.8-1.6l.6 .1m-1.9-2l.6 .1m-1.8-2.4l.5 0m-1.8-2.6l.6 0m-1.8-3l.5 0m-1.8-3.2l.6 .1m-1.8-3.5l.5 .3m-1.8-3.7l.6 .4m-1.9-3.8l.6 .6m-1.8-3.9l.5 .9m-1.8-4l.6 1.2m-1.8-3.9l.5 1.4m-1.8-3.8l.6 1.8m-1.8-3.7l.5 2.1m-1.8-3.4l.6 2.5m-1.8-3.2l.5 2.8m-1.8-2.8l.6 3.2m-1.9-2.5l.6 3.5m-1.8-2l.5 3.7m-1.8-1.6l.6 4.1m-1.8-1.1l.5 4.3m-1.8-.7l.6 4.5m-1.8-.2l.5 4.7m-1.8 .2l.6 4.8m-1.8 .7l.5 4.9m-1.8 1.1l.6 4.8m-1.9 1.5l.6 4.8m-1.8 1.8l.5 4.6m-1.8 2.1l.6 4.4m-1.8 2.3l.5 4.2m-1.8 2.4l.6 3.9m-1.8 2.5l.5 3.5m-1.8 2.5l.6 3m-1.9 2.4l.6 2.6m-1.8 2.3l.5 2m-1.8 2l.6 1.4m-1.8 1.8l.5 .9m-1.8 1.3l.6 .3m-1.8 .9l.5-.3m-1.8 .4l.6-1m-1.8-.1l.5-1.5m-1.8-.7l.6-2.1"/><path class="s" d="M41.2 -39.5L40.7 -39.2M76.4 -126.8L75.8 -128M91.5 -95.8L90.9 -96.1M119.1 -122.6L118.5 -123.3M139.2 -59.6L138.6 -60.4M74.6 -130.7L75.8 -128M117.3 -125.1L118.5 -123.3"/></g>
<g transform="translate(58.7 269.7)"><path class="fgL" d="M37.4 -48.3l2.5 5.6 2.5 1.2 2.5-3 2.6-6.6 2.5-9.5 2.5-11.5 2.5-12.5 2.5-12.4 2.5-11.5 2.5-9.8 2.5-7.5 2.6-4.8 2.5-2 2.5 .6 2.5 2.9 2.5 4.6 2.5 5.8 2.5 6.2 2.5 5.9 2.5 4.9 2.6 3.6 2.5 1.8 2.5-.2 2.5-1.9 2.5-3.5 2.5-4.7 2.5-5.2 2.5-5.2 2.6-4.4 2.5-3.1 2.5-1.2 2.5 1 2.5 3.3 2.5 5.7 2.5 7.6 2.5 9.1 2.6 10 2.5 9.8 2.5 9 2.5 7.2 2.5 4.7 2.5 1.4 2.5-2.2 2.5-6.1 2.6-9.8 2.5-13 2.5-15.7 2.5-17.2 2.5-17.7 2.5-17-.5-5-2.6 16.6-2.5 17.7-2.5 17.4-2.5 16.1-2.5 13.7-2.5 10.5-2.5 6.9-2.5 3-2.6-.7-2.5-4-2.5-6.7-2.5-8.7-2.5-9.8-2.5-10-2.5-9.3-2.5-8-2.5-6-2.6-3.7-2.5-1.4-2.5 1-2.5 2.9-2.5 4.3-2.5 5.2-2.5 5.4-2.5 5-2.6 3.8-2.5 2.3-2.5 .4-2.5-1.5-2.5-3.4-2.5-5-2.5-6.1-2.5-6.5-2.6-6.2-2.5-5.3-2.5-3.6-2.5-1.3-2.5 1.4-2.5 4.2-2.5 7-2.5 9.5-2.5 11.5-2.6 12.7-2.5 13-2.5 12.3-2.5 10.5-2.5 7.7-2.5 4.3-2.5 0-2.5-4.4z"/><path class="r" d="M36.9 -45.9l1.2 2.8 1.3 1.6 1.2 .6 1.3-.6 1.2-1.6 1.3-2.7 1.2-3.4 1.3-4.3 1.3-5 1.2-5.5 1.3-6 1.2-6.3 1.3-6.5 1.2-6.5 1.3-6.4 1.3-6.3 1.2-5.9 1.3-5.6 1.2-5 1.3-4.5 1.2-3.8 1.3-3.2 1.2-2.5 1.3-1.7 1.3-1 1.2-.4 1.3 .4 1.2 .9 1.3 1.6 1.2 2 1.3 2.5 1.2 2.8 1.3 3 1.3 3.2 1.2 3.3 1.3 3.2 1.2 3.1 1.3 3 1.2 2.6 1.3 2.4 1.3 1.9 1.2 1.5 1.3 1 1.2 .5 1.3 .1 1.2-.5 1.3-.9 1.2-1.4 1.3-1.7 1.3-2.1 1.2-2.4 1.3-2.6 1.2-2.6 1.3-2.8 1.2-2.6 1.3-2.6 1.2-2.3 1.3-2 1.3-1.7 1.2-1.2 1.3-.8 1.2-.2 1.3 .4 1.2 1 1.3 1.6 1.3 2.1 1.2 2.8 1.3 3.2 1.2 3.8 1.3 4.2 1.2 4.5 1.3 4.8 1.2 4.9 1.3 5.1 1.3 4.9 1.2 4.9 1.3 4.5 1.2 4.2 1.3 3.6 1.2 3.1 1.3 2.4 1.2 1.6 1.3 .8 1.3-.1 1.2-1 1.3-2 1.2-3 1.3-3.9 1.2-4.8 1.3-5.7 1.3-6.5 1.2-7.2 1.3-7.8 1.2-8.3 1.3-8.6 1.2-8.8 1.3-8.9 1.2-8.8 1.3-8.5 1.3-8.1"/><path class="c" d="M162.5 -160.6m0 0l.5 5m-1.8 3.1l.6 5.2m-1.9 3.3l.6 5.4m-1.8 3.4l.5 5.4m-1.8 3.5l.6 5.4m-1.8 3.4l.5 5.4m-1.8 3.2l.6 5.2m-1.8 3.1l.5 5m-1.8 2.8l.6 4.8m-1.8 2.4l.5 4.5m-1.8 2l.6 4.1m-1.9 1.6l.6 3.8m-1.8 1l.5 3.4m-1.8 .5l.6 3m-1.8 0l.5 2.6m-1.8-.6l.6 2.2m-1.8-1.2l.5 1.8m-1.8-1.7l.6 1.4m-1.9-2.2l.6 1.1m-1.8-2.7l.5 .7m-1.8-3.1l.6 .4m-1.8-3.5l.5 .2m-1.8-3.8l.6-.1m-1.8-4.1l.5-.2m-1.8-4.3l.6-.4m-1.8-4.5l.5-.3m-1.8-4.6l.6-.4m-1.9-4.7l.6-.4m-1.8-4.5l.5-.4m-1.8-4.4l.6-.3m-1.8-4.2l.5-.2m-1.8-4l.6 0m-1.8-3.8l.5 .2m-1.8-3.4l.6 .3m-1.8-3.1l.5 .5m-1.8-2.6l.6 .7m-1.9-2.3l.6 .9m-1.8-1.9l.5 1.1m-1.8-1.5l.6 1.3m-1.8-1.1l.5 1.4m-1.8-.6l.6 1.5m-1.8-.3l.5 1.6m-1.8 .1l.6 1.7m-1.9 .3l.6 1.8m-1.8 .5l.5 1.8m-1.8 .8l.6 1.7m-1.8 .9l.5 1.8m-1.8 1l.6 1.6m-1.8 1l.5 1.6m-1.8 1l.6 1.4m-1.8 1l.5 1.3m-1.8 .8l.6 1.1m-1.9 .6l.6 1m-1.8 .4l.5 .8m-1.8 .1l.6 .6m-1.8-.1l.5 .4m-1.8-.5l.6 .4m-1.8-.9l.5 .2m-1.8-1.2l.6 .1m-1.8-1.6l.5 0m-1.8-1.9l.5-.1m-1.8-2.3l.6 0m-1.8-2.6l.5 0m-1.8-3l.6 .1m-1.8-3.2l.5 .2m-1.8-3.4l.6 .3m-1.8-3.6l.5 .5m-1.8-3.7l.6 .7m-1.9-3.7l.6 .9m-1.8-3.7l.5 1.2m-1.8-3.7l.6 1.6m-1.8-3.6l.5 1.9m-1.8-3.5l.6 2.3m-1.8-3.2l.5 2.6m-1.8-3l.6 3m-1.8-2.6l.5 3.3m-1.8-2.3l.6 3.6m-1.9-1.9l.6 4m-1.8-1.5l.5 4.2m-1.8-1l.6 4.5m-1.8-.7l.5 4.7m-1.8-.2l.6 4.8m-1.8 .2l.5 5m-1.8 .6l.6 5m-1.8 .9l.5 5m-1.8 1.3l.5 4.9m-1.8 1.5l.6 4.7m-1.8 1.8l.5 4.5m-1.8 2l.6 4.2m-1.8 2.1l.5 3.8m-1.8 2.2l.6 3.4m-1.8 2.1l.5 2.9m-1.8 2.1l.6 2.4m-1.9 1.9l.6 1.8m-1.8 1.6l.5 1.3m-1.8 1.4l.6 .6m-1.8 1l.5 0m-1.8 .6l.6-.6m-1.8 0l.5-1.2m-1.8-.4l.6-1.8m-1.8-1l.5-2.4"/><path class="s" d="M42.4 -41.5L41.9 -41.5M76.3 -127L75.8 -128.2M91.4 -97L90.9 -97.2M119.1 -123.3L118.5 -124M139.1 -60.3L138.6 -61M40.6 -40.9L41.9 -41.5"/></g>
<g transform="translate(59.2 271.1)"><path class="fgL" d="M37.5 -52.3l2.5 6.8 2.5 2.4 2.5-1.7 2.5-5.4 2.5-8.4 2.5-10.7 2.5-11.9 2.6-12.1 2.5-11.5 2.5-10 2.5-7.9 2.5-5.5 2.5-2.7 2.5-.2 2.5 2.2 2.6 4 2.5 5.3 2.5 5.8 2.5 5.7 2.5 4.9 2.5 3.7 2.5 2 2.5 .2 2.6-1.6 2.5-3.2 2.5-4.3 2.5-5.1 2.5-5.1 2.5-4.5 2.5-3.2 2.5-1.5 2.5 .6 2.6 3 2.5 5.2 2.5 7.3 2.5 8.9 2.5 9.9 2.5 9.9 2.5 9.3 2.5 7.7 2.6 5.2 2.5 2.2 2.5-1.4 2.5-5.3 2.5-8.9 2.5-12.4 2.5-15.2 2.5-17 2.6-17.7 2.5-17.3-.6-5.2-2.5 17-2.5 17.7-2.5 17.2-2.5 15.7-2.5 13-2.6 9.8-2.5 6.1-2.5 2.2-2.5-1.4-2.5-4.7-2.5-7.2-2.5-9-2.5-9.8-2.6-10-2.5-9.1-2.5-7.6-2.5-5.7-2.5-3.3-2.5-1-2.5 1.2-2.5 3.1-2.6 4.4-2.5 5.2-2.5 5.2-2.5 4.7-2.5 3.5-2.5 1.9-2.5 .2-2.5-1.8-2.6-3.6-2.5-4.9-2.5-5.9-2.5-6.2-2.5-5.8-2.5-4.6-2.5-2.9-2.5-.6-2.5 2-2.6 4.8-2.5 7.5-2.5 9.8-2.5 11.5-2.5 12.4-2.5 12.5-2.5 11.5-2.5 9.5-2.6 6.6-2.5 3-2.5-1.2-2.5-5.6z"/><path class="r" d="M36.9 -49.7l1.3 3.4 1.2 2.2 1.3 1.2 1.2 0 1.3-1 1.2-2 1.3-2.9 1.3-3.7 1.2-4.5 1.3-5 1.2-5.6 1.3-5.9 1.2-6.2 1.3-6.3 1.2-6.2 1.3-6.2 1.3-5.9 1.2-5.6 1.3-5.2 1.2-4.6 1.3-4 1.2-3.5 1.3-2.7 1.3-2.1 1.2-1.3 1.3-.7 1.2 0 1.3 .6 1.2 1.2 1.3 1.7 1.2 2.1 1.3 2.5 1.3 2.8 1.2 3 1.3 3.1 1.2 3.1 1.3 3 1.2 2.9 1.3 2.6 1.2 2.3 1.3 2 1.3 1.6 1.2 1.1 1.3 .7 1.2 .1 1.3-.3 1.2-.7 1.3-1.2 1.3-1.6 1.2-1.9 1.3-2.3 1.2-2.4 1.3-2.6 1.2-2.6 1.3-2.7 1.2-2.5 1.3-2.3 1.3-2.1 1.2-1.8 1.3-1.3 1.2-.9 1.3-.3 1.2 .2 1.3 .8 1.3 1.4 1.2 1.9 1.3 2.6 1.2 3.1 1.3 3.6 1.2 4 1.3 4.4 1.2 4.7 1.3 4.9 1.3 5.1 1.2 5 1.3 4.8 1.2 4.7 1.3 4.3 1.2 3.9 1.3 3.3 1.2 2.7 1.3 2 1.3 1.1 1.2 .3 1.3-.6 1.2-1.6 1.3-2.6 1.2-3.5 1.3-4.4 1.3-5.4 1.2-6.1 1.3-6.9 1.2-7.6 1.3-8.1 1.2-8.4 1.3-8.8 1.2-8.9 1.3-8.8 1.3-8.7 1.2-8.3"/><path class="c" d="M162.5 -157m0 0l.6 5.2m-1.8 3.1l.5 5.4m-1.8 3.3l.6 5.5m-1.9 3.3l.6 5.6m-1.8 3.3l.5 5.5m-1.8 3.3l.6 5.4m-1.8 3l.5 5.3m-1.8 2.8l.6 5.1m-1.8 2.5l.5 4.8m-1.8 2.1l.6 4.5m-1.8 1.6l.5 4.2m-1.8 1.2l.5 3.7m-1.8 .7l.6 3.3m-1.8 .2l.5 2.9m-1.8-.3l.6 2.5m-1.8-.9l.5 2m-1.8-1.4l.6 1.7m-1.8-2l.5 1.3m-1.8-2.4l.6 .9m-1.9-2.9l.6 .6m-1.8-3.3l.5 .4m-1.8-3.7l.6 .1m-1.8-4l.5-.1m-1.8-4.2l.6-.3m-1.8-4.4l.5-.4m-1.8-4.4l.6-.5m-1.8-4.5l.5-.5m-1.8-4.6l.6-.4m-1.9-4.5l.6-.4m-1.8-4.3l.5-.3m-1.8-4.1l.6-.2m-1.8-3.8l.5 0m-1.8-3.6l.6 .1m-1.8-3.2l.5 .3m-1.8-2.9l.6 .6m-1.8-2.5l.5 .7m-1.8-2.1l.5 .9m-1.8-1.7l.6 1.1m-1.8-1.3l.5 1.3m-1.8-1l.6 1.5m-1.8-.6l.5 1.6m-1.8-.3l.6 1.7m-1.8 .1l.5 1.7m-1.8 .4l.6 1.8m-1.9 .5l.6 1.8m-1.8 .7l.5 1.8m-1.8 .9l.6 1.7m-1.8 .9l.5 1.7m-1.8 .9l.6 1.6m-1.8 .8l.5 1.5m-1.8 .8l.6 1.2m-1.8 .7l.5 1.1m-1.8 .5l.6 .9m-1.9 .3l.6 .7m-1.8 0l.5 .6m-1.8-.3l.6 .5m-1.8-.6l.5 .2m-1.8-.9l.6 .1m-1.8-1.2l.5 0m-1.8-1.6l.6-.1m-1.9-1.9l.6-.1m-1.8-2.2l.5-.1m-1.8-2.5l.6-.1m-1.8-2.8l.5 0m-1.8-3l.6 .1m-1.8-3.2l.5 .2m-1.8-3.3l.6 .5m-1.8-3.5l.5 .7m-1.8-3.5l.6 1m-1.9-3.5l.6 1.3m-1.8-3.4l.5 1.6m-1.8-3.3l.6 2m-1.8-3.2l.5 2.3m-1.8-2.9l.6 2.7m-1.8-2.7l.5 3.1m-1.8-2.4l.6 3.4m-1.8-2.1l.5 3.8m-1.8-1.7l.6 4.1m-1.9-1.4l.6 4.5m-1.8-1l.5 4.6m-1.8-.6l.6 4.9m-1.8-.3l.5 5.1m-1.8 .1l.6 5.1m-1.8 .5l.5 5.1m-1.8 .8l.6 5.1m-1.9 1.1l.6 4.9m-1.8 1.3l.5 4.8m-1.8 1.5l.6 4.6m-1.8 1.6l.5 4.2m-1.8 1.7l.6 3.9m-1.8 1.7l.5 3.4m-1.8 1.6l.6 2.9m-1.8 1.6l.5 2.3m-1.8 1.4l.6 1.8m-1.9 1.1l.6 1.1m-1.8 .9l.5 .5m-1.8 .5l.6-.2m-1.8 .2l.5-.9m-1.8-.3l.6-1.4m-1.8-.8l.5-2.1m-1.8-1.3l.6-2.6"/><path class="s" d="M42.5 -43.1L41.9 -42.9M77.7 -124.9L77.1 -125.9M92.7 -97.5L92.2 -97.7M119.1 -124L118.6 -124.7M140.5 -58.8L139.9 -59.7M75.8 -128.4L77.1 -125.9M90.9 -98.4L92.2 -97.7M138.6 -61.7L139.9 -59.7"/></g>
<g transform="translate(59.8 272.5)"><path class="fgL" d="M37.4 -56.7l2.5 8 2.5 3.8 2.6-.3 2.5-4.2 2.5-7.3 2.5-9.7 2.5-11.3 2.5-11.8 2.5-11.4 2.5-10.3 2.5-8.3 2.6-6.1 2.5-3.4 2.5-1 2.5 1.4 2.5 3.4 2.5 4.7 2.5 5.4 2.5 5.5 2.6 4.9 2.5 3.7 2.5 2.3 2.5 .5 2.5-1.2 2.5-2.8 2.5-4.1 2.5-4.9 2.6-5 2.5-4.5 2.5-3.4 2.5-1.8 2.5 .3 2.5 2.6 2.5 4.8 2.5 7 2.6 8.6 2.5 9.7 2.5 10.1 2.5 9.5 2.5 8.1 2.5 5.8 2.5 3 2.5-.6 2.5-4.3 2.6-8.2 2.5-11.6 2.5-14.6 2.5-16.8 2.5-17.7 2.5-17.6-.5-5.4-2.5 17.3-2.6 17.7-2.5 17-2.5 15.2-2.5 12.4-2.5 8.9-2.5 5.3-2.5 1.4-2.5-2.2-2.6-5.2-2.5-7.7-2.5-9.3-2.5-9.9-2.5-9.9-2.5-8.9-2.5-7.3-2.5-5.2-2.6-3-2.5-.6-2.5 1.5-2.5 3.2-2.5 4.5-2.5 5.1-2.5 5.1-2.5 4.3-2.5 3.2-2.6 1.6-2.5-.2-2.5-2-2.5-3.7-2.5-4.9-2.5-5.7-2.5-5.8-2.5-5.3-2.6-4-2.5-2.2-2.5 .2-2.5 2.7-2.5 5.5-2.5 7.9-2.5 10-2.5 11.5-2.6 12.1-2.5 11.9-2.5 10.7-2.5 8.4-2.5 5.4-2.5 1.7-2.5-2.4-2.5-6.8z"/><path class="r" d="M36.9 -53.7l1.2 3.9 1.3 2.9 1.2 1.7 1.3 .7 1.2-.3 1.3-1.4 1.3-2.2 1.2-3.2 1.3-3.9 1.2-4.5 1.3-5.1 1.2-5.6 1.3-5.8 1.2-6.1 1.3-6.1 1.3-6 1.2-5.9 1.3-5.6 1.2-5.2 1.3-4.8 1.2-4.3 1.3-3.6 1.3-3.1 1.2-2.4 1.3-1.7 1.2-1 1.3-.4 1.2 .2 1.3 .9 1.2 1.3 1.3 1.8 1.3 2.2 1.2 2.5 1.3 2.8 1.2 2.8 1.3 3 1.2 2.9 1.3 2.8 1.2 2.6 1.3 2.3 1.3 2 1.2 1.7 1.3 1.2 1.2 .8 1.3 .4 1.2-.2 1.3-.6 1.3-1 1.2-1.4 1.3-1.8 1.2-2 1.3-2.3 1.2-2.5 1.3-2.6 1.2-2.6 1.3-2.5 1.3-2.3 1.2-2.2 1.3-1.8 1.2-1.4 1.3-1 1.2-.5 1.3 0 1.2 .6 1.3 1.2 1.3 1.8 1.2 2.3 1.3 2.9 1.2 3.5 1.3 3.8 1.2 4.3 1.3 4.6 1.3 4.9 1.2 5 1.3 5 1.2 4.9 1.3 4.8 1.2 4.5 1.3 4.1 1.2 3.6 1.3 2.9 1.3 2.3 1.2 1.5 1.3 .7 1.2-.3 1.3-1.1 1.2-2.2 1.3-3.1 1.2-4 1.3-4.9 1.3-5.8 1.2-6.6 1.3-7.3 1.2-7.9 1.3-8.3 1.2-8.7 1.3-8.8 1.3-8.9 1.2-8.8 1.3-8.5"/><path class="c" d="M162.5 -153.2m0 0l.5 5.4m-1.8 3.1l.6 5.6m-1.8 3.2l.5 5.7m-1.8 3.2l.6 5.7m-1.9 3.1l.6 5.7m-1.8 3l.5 5.6m-1.8 2.7l.6 5.5m-1.8 2.4l.5 5.2m-1.8 2.1l.6 4.9m-1.8 1.7l.5 4.5m-1.8 1.3l.6 4.1m-1.9 .8l.6 3.7m-1.8 .3l.5 3.4m-1.8-.3l.6 2.9m-1.8-.7l.5 2.4m-1.8-1.3l.6 2m-1.8-1.7l.5 1.6m-1.8-2.3l.6 1.2m-1.8-2.7l.5 .8m-1.8-3.1l.6 .5m-1.9-3.4l.6 .2m-1.8-3.8l.5 0m-1.8-4.1l.6-.2m-1.8-4.3l.5-.4m-1.8-4.4l.6-.4m-1.8-4.5l.5-.6m-1.8-4.4l.6-.6m-1.8-4.4l.5-.5m-1.8-4.4l.6-.4m-1.9-4.2l.6-.3m-1.8-4l.5-.1m-1.8-3.7l.6-.1m-1.8-3.4l.5 .2m-1.8-3.1l.6 .4m-1.8-2.7l.5 .6m-1.8-2.4l.6 .8m-1.9-2l.6 1m-1.8-1.6l.5 1.2m-1.8-1.2l.6 1.3m-1.8-.8l.5 1.5m-1.8-.5l.6 1.6m-1.8-.2l.5 1.8m-1.8 0l.6 1.8m-1.8 .4l.5 1.8m-1.8 .5l.6 1.8m-1.9 .7l.6 1.8m-1.8 .8l.5 1.7m-1.8 .9l.6 1.6m-1.8 .9l.5 1.5m-1.8 .8l.6 1.3m-1.8 .7l.5 1.3m-1.8 .5l.6 1.1m-1.8 .3l.5 .9m-1.8 .1l.5 .7m-1.8-.1l.6 .5m-1.8-.3l.5 .3m-1.8-.7l.6 .2m-1.8-1l.5 .1m-1.8-1.3l.6-.1m-1.8-1.6l.5-.1m-1.8-1.9l.6-.1m-1.9-2.2l.6-.2m-1.8-2.4l.5-.1m-1.8-2.7l.6 0m-1.8-2.9l.5 .1m-1.8-3.1l.6 .3m-1.8-3.1l.5 .5m-1.8-3.3l.6 .8m-1.8-3.3l.5 1.1m-1.8-3.3l.6 1.4m-1.9-3.2l.6 1.7m-1.8-3l.5 2.1m-1.8-3l.6 2.5m-1.8-2.7l.5 2.9m-1.8-2.5l.6 3.3m-1.8-2.3l.5 3.7m-1.8-2l.6 4m-1.8-1.6l.5 4.3m-1.8-1.2l.5 4.6m-1.8-1l.6 4.9m-1.8-.6l.5 5m-1.8-.2l.6 5.2m-1.8 0l.5 5.3m-1.8 .3l.6 5.3m-1.8 .6l.5 5.2m-1.8 .8l.6 5.1m-1.9 1l.6 4.9m-1.8 1.2l.5 4.6m-1.8 1.2l.6 4.3m-1.8 1.3l.5 3.8m-1.8 1.3l.6 3.3m-1.8 1.2l.5 2.8m-1.8 1.1l.6 2.2m-1.8 1l.5 1.6m-1.8 .6l.6 1m-1.9 .4l.6 .2m-1.8 .1l.5-.4m-1.8-.3l.6-1.1m-1.8-.6l.5-1.8m-1.8-1.1l.6-2.4m-1.8-1.5l.5-3"/><path class="s" d="M43.7 -44.6L43.1 -44.8M77.6 -125.2L77.1 -126.3M92.7 -98.7L92.1 -98.9M119.1 -124.6L118.5 -125.4M140.4 -59.4L139.9 -60.2M41.9 -44.5L43.1 -44.8"/></g>
<g transform="translate(60.3 273.8)"><path class="fgL" d="M37.5 -61.3l2.5 9.3 2.5 5.2 2.5 1.1 2.5-2.8 2.5-6.2 2.5-8.8 2.6-10.5 2.5-11.4 2.5-11.4 2.5-10.4 2.5-8.8 2.5-6.7 2.5-4.2 2.5-1.8 2.6 .7 2.5 2.6 2.5 4.1 2.5 5 2.5 5.2 2.5 4.8 2.5 3.9 2.5 2.5 2.5 .9 2.6-.9 2.5-2.5 2.5-3.7 2.5-4.6 2.5-4.9 2.5-4.5 2.5-3.6 2.5-2.1 2.6-.1 2.5 2.1 2.5 4.5 2.5 6.5 2.5 8.4 2.5 9.6 2.5 10.1 2.5 9.7 2.6 8.6 2.5 6.5 2.5 3.7 2.5 .3 2.5-3.5 2.5-7.2 2.5-10.9 2.5-14 2.5-16.4 2.6-17.7 2.5-17.9-.6-5.6-2.5 17.6-2.5 17.7-2.5 16.8-2.5 14.6-2.5 11.6-2.6 8.2-2.5 4.3-2.5 .6-2.5-3-2.5-5.8-2.5-8.1-2.5-9.5-2.5-10.1-2.5-9.7-2.6-8.6-2.5-7-2.5-4.8-2.5-2.6-2.5-.3-2.5 1.8-2.5 3.4-2.5 4.5-2.6 5-2.5 4.9-2.5 4.1-2.5 2.8-2.5 1.2-2.5-.5-2.5-2.3-2.5-3.7-2.6-4.9-2.5-5.5-2.5-5.4-2.5-4.7-2.5-3.4-2.5-1.4-2.5 1-2.5 3.4-2.6 6.1-2.5 8.3-2.5 10.3-2.5 11.4-2.5 11.8-2.5 11.3-2.5 9.7-2.5 7.3-2.5 4.2-2.6 .3-2.5-3.8-2.5-8z"/><path class="r" d="M36.9 -58l1.3 4.5 1.2 3.5 1.3 2.4 1.2 1.4 1.3 .3 1.3-.6 1.2-1.6 1.3-2.6 1.2-3.3 1.3-4 1.2-4.6 1.3-5.1 1.2-5.5 1.3-5.8 1.3-5.9 1.2-5.9 1.3-5.8 1.2-5.6 1.3-5.3 1.2-5 1.3-4.4 1.2-3.9 1.3-3.4 1.3-2.7 1.2-2 1.3-1.4 1.2-.8 1.3-.2 1.2 .5 1.3 .9 1.3 1.5 1.2 1.9 1.3 2.2 1.2 2.5 1.3 2.6 1.2 2.8 1.3 2.8 1.2 2.7 1.3 2.5 1.3 2.4 1.2 2 1.3 1.7 1.2 1.4 1.3 .9 1.2 .5 1.3 0 1.2-.4 1.3-.8 1.3-1.2 1.2-1.6 1.3-2 1.2-2.1 1.3-2.4 1.2-2.5 1.3-2.5 1.3-2.5 1.2-2.3 1.3-2.2 1.2-1.8 1.3-1.6 1.2-1.1 1.3-.7 1.2-.1 1.3 .4 1.3 1 1.2 1.6 1.3 2.1 1.2 2.7 1.3 3.2 1.2 3.8 1.3 4.1 1.3 4.5 1.2 4.8 1.3 4.9 1.2 5 1.3 5.1 1.2 4.8 1.3 4.7 1.2 4.3 1.3 3.8 1.3 3.2 1.2 2.6 1.3 1.9 1.2 1.1 1.3 .1 1.2-.7 1.3-1.7 1.2-2.6 1.3-3.7 1.3-4.5 1.2-5.4 1.3-6.2 1.2-7 1.3-7.6 1.2-8.2 1.3-8.6 1.3-8.8 1.2-8.9 1.3-8.9 1.2-8.7"/><path class="c" d="M162.5 -149.1m0 0l.6 5.6m-1.8 3.1l.5 5.8m-1.8 3.1l.6 5.9m-1.8 3l.5 5.9m-1.8 2.9l.5 5.9m-1.8 2.7l.6 5.7m-1.8 2.5l.5 5.5m-1.8 2.1l.6 5.2m-1.8 1.8l.5 4.9m-1.8 1.3l.6 4.6m-1.8 .8l.5 4.2m-1.8 .3l.6 3.8m-1.9-.1l.6 3.2m-1.8-.6l.5 2.8m-1.8-1.1l.6 2.4m-1.8-1.7l.5 2m-1.8-2.1l.6 1.5m-1.8-2.6l.5 1.1m-1.8-3l.6 .8m-1.8-3.4l.5 .4m-1.8-3.6l.6 .1m-1.9-3.9l.6-.2m-1.8-4.1l.5-.4m-1.8-4.3l.6-.5m-1.8-4.3l.5-.6m-1.8-4.5l.6-.6m-1.8-4.4l.5-.6m-1.8-4.3l.6-.6m-1.8-4.2l.5-.5m-1.8-4l.5-.4m-1.8-3.7l.6-.3m-1.8-3.5l.5 0m-1.8-3.2l.6 .2m-1.8-2.9l.5 .4m-1.8-2.5l.6 .5m-1.8-2.1l.5 .8m-1.8-1.8l.6 1m-1.9-1.4l.6 1.2m-1.8-1.1l.5 1.4m-1.8-.7l.6 1.5m-1.8-.4l.5 1.7m-1.8-.1l.6 1.7m-1.8 .1l.5 1.9m-1.8 .3l.6 1.8m-1.8 .5l.5 1.9m-1.8 .6l.6 1.8m-1.9 .7l.6 1.8m-1.8 .7l.5 1.6m-1.8 .8l.6 1.5m-1.8 .6l.5 1.4m-1.8 .6l.6 1.1m-1.8 .5l.5 .9m-1.8 .3l.6 .8m-1.9 0l.6 .6m-1.8-.2l.5 .5m-1.8-.5l.6 .2m-1.8-.7l.5 .1m-1.8-1l.6-.1m-1.8-1.3l.5-.1m-1.8-1.6l.6-.2m-1.8-1.8l.5-.3m-1.8-2.1l.6-.2m-1.9-2.3l.6-.2m-1.8-2.5l.5-.1m-1.8-2.7l.6 .1m-1.8-2.9l.5 .3m-1.8-2.9l.6 .5m-1.8-3l.5 .8m-1.8-3l.6 1.1m-1.8-3l.5 1.4m-1.8-2.9l.6 1.9m-1.9-2.8l.6 2.2m-1.8-2.7l.5 2.6m-1.8-2.4l.6 3m-1.8-2.2l.5 3.4m-1.8-2l.6 3.8m-1.8-1.8l.5 4.2m-1.8-1.5l.6 4.6m-1.9-1.2l.6 4.8m-1.8-.9l.5 5m-1.8-.6l.6 5.3m-1.8-.3l.5 5.3m-1.8 0l.6 5.4m-1.8 .2l.5 5.4m-1.8 .4l.6 5.4m-1.8 .5l.5 5.2m-1.8 .7l.6 5m-1.9 .8l.6 4.6m-1.8 .9l.5 4.2m-1.8 .9l.6 3.8m-1.8 .8l.5 3.3m-1.8 .7l.6 2.8m-1.8 .5l.5 2.2m-1.8 .4l.6 1.4m-1.8 .2l.5 .8m-1.8-.2l.6 .1m-1.9-.4l.6-.6m-1.8-.8l.5-1.3m-1.8-1.1l.6-2m-1.8-1.5l.5-2.6m-1.8-1.9l.6-3.3"/><path class="s" d="M43.8 -45.8L43.2 -45.9M78.9 -123.5L78.4 -124.3M94 -99.3L93.4 -99.5M120.4 -123.8L119.8 -124.3M141.7 -57.7L141.2 -58.8M77.1 -126.5L78.4 -124.3M92.2 -100L93.4 -99.5M118.6 -125.9L119.8 -124.3M139.9 -60.7L141.2 -58.8"/></g>
<g transform="translate(60.9 275.2)"><path class="fgL" d="M37.4 -66.2l2.5 10.5 2.5 6.6 2.6 2.6 2.5-1.4 2.5-4.9 2.5-7.8 2.5-9.8 2.5-11 2.5-11.2 2.5-10.6 2.6-9.2 2.5-7.3 2.5-5.1 2.5-2.5 2.5-.2 2.5 1.8 2.5 3.5 2.5 4.5 2.6 5 2.5 4.7 2.5 4 2.5 2.7 2.5 1.2 2.5-.5 2.5-2 2.5-3.4 2.6-4.4 2.5-4.7 2.5-4.6 2.5-3.7 2.5-2.4 2.5-.4 2.5 1.6 2.5 4 2.5 6.2 2.6 8 2.5 9.5 2.5 10.1 2.5 10 2.5 8.9 2.5 7.2 2.5 4.5 2.5 1.2 2.6-2.5 2.5-6.4 2.5-10 2.5-13.4 2.5-16 2.5-17.6 2.5-18.1-.5-5.9-2.5 17.9-2.6 17.7-2.5 16.4-2.5 14-2.5 10.9-2.5 7.2-2.5 3.5-2.5-.3-2.5-3.7-2.5-6.5-2.6-8.6-2.5-9.7-2.5-10.1-2.5-9.6-2.5-8.4-2.5-6.5-2.5-4.5-2.5-2.1-2.6 .1-2.5 2.1-2.5 3.6-2.5 4.5-2.5 4.9-2.5 4.6-2.5 3.7-2.5 2.5-2.6 .9-2.5-.9-2.5-2.5-2.5-3.9-2.5-4.8-2.5-5.2-2.5-5-2.5-4.1-2.5-2.6-2.6-.7-2.5 1.8-2.5 4.2-2.5 6.7-2.5 8.8-2.5 10.4-2.5 11.4-2.5 11.4-2.6 10.5-2.5 8.8-2.5 6.2-2.5 2.8-2.5-1.1-2.5-5.2-2.5-9.3z"/><path class="r" d="M36.9 -62.7l1.2 5.2 1.3 4.1 1.2 3.1 1.3 2.1 1.3 1 1.2 .1 1.3-1 1.2-1.8 1.3-2.7 1.2-3.5 1.3-4.1 1.2-4.7 1.3-5.1 1.3-5.4 1.2-5.7 1.3-5.7 1.2-5.8 1.3-5.6 1.2-5.4 1.3-5 1.2-4.7 1.3-4.1 1.3-3.6 1.2-3.1 1.3-2.4 1.2-1.8 1.3-1.2 1.2-.6 1.3 .1 1.3 .6 1.2 1 1.3 1.6 1.2 1.9 1.3 2.2 1.2 2.4 1.3 2.6 1.2 2.6 1.3 2.6 1.3 2.5 1.2 2.3 1.3 2.1 1.2 1.8 1.3 1.4 1.2 1.1 1.3 .6 1.2 .3 1.3-.3 1.3-.6 1.2-1.1 1.3-1.4 1.2-1.7 1.3-2 1.2-2.3 1.3-2.3 1.3-2.5 1.2-2.4 1.3-2.4 1.2-2.1 1.3-2 1.2-1.6 1.3-1.3 1.2-.8 1.3-.3 1.3 .2 1.2 .8 1.3 1.3 1.2 2 1.3 2.5 1.2 3 1.3 3.5 1.2 4 1.3 4.4 1.3 4.7 1.2 4.9 1.3 5 1.2 5.1 1.3 4.9 1.2 4.8 1.3 4.5 1.3 4.1 1.2 3.5 1.3 3 1.2 2.2 1.3 1.5 1.2 .6 1.3-.3 1.2-1.3 1.3-2.2 1.3-3.1 1.2-4.1 1.3-5 1.2-5.9 1.3-6.7 1.2-7.3 1.3-8 1.2-8.4 1.3-8.8 1.3-8.9 1.2-9 1.3-8.9"/><path class="c" d="M162.5 -144.9m0 0l.5 5.9m-1.8 3l.6 6m-1.8 3l.5 6.1m-1.8 2.8l.6 6.1m-1.9 2.7l.6 6m-1.8 2.4l.5 5.9m-1.8 2.1l.6 5.6m-1.8 1.7l.5 5.4m-1.8 1.3l.6 5m-1.8 .9l.5 4.6m-1.8 .4l.6 4.1m-1.8 0l.5 3.7m-1.8-.6l.6 3.3m-1.9-1.1l.6 2.8m-1.8-1.5l.5 2.3m-1.8-2l.6 1.8m-1.8-2.4l.5 1.4m-1.8-2.9l.6 1m-1.8-3.2l.5 .6m-1.8-3.6l.6 .3m-1.8-3.8l.5-.1m-1.8-4l.6-.3m-1.9-4.2l.6-.4m-1.8-4.4l.5-.6m-1.8-4.3l.6-.7m-1.8-4.4l.5-.7m-1.8-4.3l.6-.7m-1.8-4.2l.5-.7m-1.8-4l.6-.6m-1.9-3.8l.6-.4m-1.8-3.6l.5-.2m-1.8-3.3l.6-.1m-1.8-2.9l.5 .1m-1.8-2.6l.6 .3m-1.8-2.3l.5 .6m-1.8-1.9l.6 .8m-1.8-1.6l.5 1.1m-1.8-1.3l.6 1.2m-1.9-.9l.6 1.4m-1.8-.6l.5 1.6m-1.8-.3l.6 1.7m-1.8-.1l.5 1.8m-1.8 .2l.6 1.8m-1.8 .3l.5 1.9m-1.8 .5l.6 1.9m-1.8 .5l.5 1.9m-1.8 .6l.6 1.7m-1.9 .6l.6 1.7m-1.8 .6l.5 1.5m-1.8 .5l.6 1.3m-1.8 .4l.5 1.2m-1.8 .2l.6 1m-1.8 .1l.5 .7m-1.8-.1l.6 .6m-1.9-.3l.6 .3m-1.8-.6l.5 .2m-1.8-.8l.6 0m-1.8-1.1l.5-.1m-1.8-1.3l.6-.2m-1.8-1.6l.5-.3m-1.8-1.8l.6-.3m-1.8-2l.5-.3m-1.8-2.2l.6-.2m-1.9-2.4l.6-.1m-1.8-2.5l.5 0m-1.8-2.6l.6 .3m-1.8-2.7l.5 .5m-1.8-2.7l.6 .8m-1.8-2.7l.5 1.1m-1.8-2.7l.6 1.6m-1.8-2.6l.5 1.9m-1.8-2.5l.5 2.3m-1.8-2.4l.6 2.8m-1.8-2.2l.5 3.2m-1.8-2l.6 3.5m-1.8-1.7l.5 3.9m-1.8-1.5l.6 4.4m-1.8-1.3l.5 4.6m-1.8-1l.6 5m-1.9-.9l.6 5.3m-1.8-.6l.5 5.4m-1.8-.4l.6 5.6m-1.8-.2l.5 5.6m-1.8 0l.6 5.6m-1.8 .2l.5 5.4m-1.8 .3l.6 5.3m-1.8 .4l.5 5m-1.8 .4l.6 4.7m-1.9 .4l.6 4.3m-1.8 .4l.5 3.8m-1.8 .3l.6 3.3m-1.8 .2l.5 2.6m-1.8 .1l.6 2m-1.8-.2l.5 1.4m-1.8-.4l.6 .6m-1.8-.7l.5-.1m-1.8-.9l.5-.9m-1.8-1.2l.6-1.6m-1.8-1.5l.5-2.3m-1.8-1.8l.6-3m-1.8-2.2l.5-3.5"/><path class="s" d="M43.7 -47.3L43.2 -47.2M78.9 -124.1L78.3 -124.9M93.9 -100.5L93.4 -100.7M120.3 -124.6L119.8 -125.2M141.7 -58.1L141.1 -59.1"/></g>
<g transform="translate(61.5 276.6)"><path class="fgL" d="M37.4 -71.5l2.5 11.9 2.5 8.1 2.5 4 2.5 .1 2.5-3.6 2.6-6.6 2.5-9.1 2.5-10.5 2.5-11 2.5-10.8 2.5-9.7 2.5-7.9 2.5-5.8 2.5-3.5 2.6-1 2.5 1 2.5 2.9 2.5 4 2.5 4.6 2.5 4.7 2.5 4 2.5 3 2.6 1.5 2.5-.1 2.5-1.6 2.5-3.1 2.5-4.1 2.5-4.6 2.5-4.5 2.5-3.9 2.6-2.6 2.5-.9 2.5 1.3 2.5 3.5 2.5 5.7 2.5 7.7 2.5 9.3 2.5 10.1 2.5 10.2 2.6 9.4 2.5 7.8 2.5 5.3 2.5 2.1 2.5-1.5 2.5-5.4 2.5-9.2 2.5-12.7 2.6-15.5 2.5-17.5 2.5-18.4-.6-6-2.5 18.1-2.5 17.6-2.5 16-2.5 13.4-2.5 10-2.5 6.4-2.6 2.5-2.5-1.2-2.5-4.5-2.5-7.2-2.5-8.9-2.5-10-2.5-10.1-2.5-9.5-2.6-8-2.5-6.2-2.5-4-2.5-1.6-2.5 .4-2.5 2.4-2.5 3.7-2.5 4.6-2.5 4.7-2.6 4.4-2.5 3.4-2.5 2-2.5 .5-2.5-1.2-2.5-2.7-2.5-4-2.5-4.7-2.6-5-2.5-4.5-2.5-3.5-2.5-1.8-2.5 .2-2.5 2.5-2.5 5.1-2.5 7.3-2.6 9.2-2.5 10.6-2.5 11.2-2.5 11-2.5 9.8-2.5 7.8-2.5 4.9-2.5 1.4-2.6-2.6-2.5-6.6-2.5-10.5z"/><path class="r" d="M36.8 -67.6l1.3 5.7 1.2 4.8 1.3 3.8 1.2 2.8 1.3 1.8 1.3 .8 1.2-.2 1.3-1.2 1.2-2.1 1.3-2.8 1.2-3.6 1.3-4.2 1.3-4.7 1.2-5.1 1.3-5.4 1.2-5.6 1.3-5.6 1.2-5.6 1.3-5.4 1.2-5.2 1.3-4.8 1.3-4.4 1.2-4 1.3-3.3 1.2-2.9 1.3-2.2 1.2-1.5 1.3-1 1.2-.4 1.3 .2 1.3 .7 1.2 1.1 1.3 1.6 1.2 1.9 1.3 2.2 1.2 2.3 1.3 2.5 1.3 2.5 1.2 2.4 1.3 2.3 1.2 2.1 1.3 1.9 1.2 1.5 1.3 1.2 1.2 .8 1.3 .4 1.3 0 1.2-.5 1.3-.8 1.2-1.2 1.3-1.6 1.2-1.8 1.3-2.1 1.3-2.3 1.2-2.3 1.3-2.4 1.2-2.4 1.3-2.2 1.2-2 1.3-1.7 1.2-1.4 1.3-1 1.3-.5 1.2 .1 1.3 .5 1.2 1.1 1.3 1.7 1.2 2.3 1.3 2.8 1.2 3.4 1.3 3.8 1.3 4.2 1.2 4.6 1.3 4.9 1.2 5 1.3 5.1 1.2 5 1.3 5 1.3 4.6 1.2 4.3 1.3 3.9 1.2 3.3 1.3 2.6 1.2 1.9 1.3 1 1.2 .2 1.3-.8 1.3-1.7 1.2-2.7 1.3-3.7 1.2-4.5 1.3-5.5 1.2-6.3 1.3-7.1 1.2-7.7 1.3-8.3 1.3-8.7 1.2-8.9 1.3-9.1 1.2-9"/><path class="c" d="M162.4 -140.4m0 0l.6 6m-1.8 3l.5 6.2m-1.8 2.9l.6 6.3m-1.8 2.6l.5 6.3m-1.8 2.4l.6 6.2m-1.9 2.1l.6 5.9m-1.8 1.8l.5 5.7m-1.8 1.4l.6 5.4m-1.8 .9l.5 5m-1.8 .5l.6 4.6m-1.8-.1l.5 4.2m-1.8-.5l.6 3.7m-1.8-1l.5 3.2m-1.8-1.5l.6 2.7m-1.9-1.9l.6 2.2m-1.8-2.4l.5 1.8m-1.8-2.8l.6 1.3m-1.8-3.2l.5 .9m-1.8-3.5l.6 .5m-1.8-3.8l.5 .2m-1.8-4.1l.6-.1m-1.8-4.2l.5-.3m-1.8-4.3l.5-.6m-1.8-4.4l.6-.7m-1.8-4.3l.5-.8m-1.8-4.3l.6-.8m-1.8-4.2l.5-.8m-1.8-4.1l.6-.7m-1.8-3.9l.5-.6m-1.8-3.6l.6-.5m-1.9-3.3l.6-.3m-1.8-3.1l.5 0m-1.8-2.8l.6 .2m-1.8-2.5l.5 .4m-1.8-2.1l.6 .7m-1.8-1.8l.5 .9m-1.8-1.4l.6 1m-1.8-1.1l.5 1.3m-1.8-.8l.6 1.5m-1.9-.5l.6 1.6m-1.8-.2l.5 1.7m-1.8 0l.6 1.8m-1.8 .2l.5 1.9m-1.8 .3l.6 1.9m-1.8 .5l.5 1.8m-1.8 .6l.6 1.8m-1.8 .5l.5 1.7m-1.8 .6l.5 1.6m-1.8 .5l.6 1.4m-1.8 .4l.5 1.3m-1.8 .3l.6 1.1m-1.8 .1l.5 .9m-1.8-.1l.6 .7m-1.8-.2l.5 .5m-1.8-.5l.6 .3m-1.9-.7l.6 .1m-1.8-.9l.5 0m-1.8-1.2l.6-.2m-1.8-1.3l.5-.3m-1.8-1.6l.6-.3m-1.8-1.8l.5-.3m-1.8-2l.6-.3m-1.8-2.1l.5-.3m-1.8-2.2l.6-.1m-1.9-2.4l.6 .1m-1.8-2.4l.5 .3m-1.8-2.5l.6 .6m-1.8-2.5l.5 .9m-1.8-2.5l.6 1.2m-1.8-2.3l.5 1.6m-1.8-2.3l.6 2m-1.9-2.2l.6 2.4m-1.8-2l.5 2.8m-1.8-1.8l.6 3.3m-1.8-1.8l.5 3.8m-1.8-1.6l.6 4.2m-1.8-1.3l.5 4.5m-1.8-1.2l.6 4.9m-1.8-.9l.5 5.1m-1.8-.7l.6 5.4m-1.9-.6l.6 5.6m-1.8-.4l.5 5.7m-1.8-.3l.6 5.8m-1.8-.2l.5 5.7m-1.8-.1l.6 5.6m-1.8 0l.5 5.4m-1.8 0l.6 5.1m-1.8 0l.5 4.8m-1.8-.1l.6 4.4m-1.9-.2l.6 3.8m-1.8-.2l.5 3.2m-1.8-.4l.6 2.6m-1.8-.5l.5 1.9m-1.8-.7l.6 1.1m-1.8-.9l.5 .4m-1.8-1.2l.6-.3m-1.9-1.5l.6-1m-1.8-1.8l.5-1.8m-1.8-2l.6-2.5m-1.8-2.3l.5-3.2m-1.8-2.5l.6-3.9"/><path class="s" d="M44.9 -47.5L44.4 -47.9M78.8 -124.6L78.3 -125.5M95.2 -101.2L94.6 -101.5M120.3 -125.3L119.7 -126M141.6 -58.6L141.1 -59.5M43.1 -48.7L44.4 -47.9M93.3 -101.9L94.6 -101.5"/></g>
<g transform="translate(62 278)"><path class="fgL" d="M37.4 -77l2.5 13.2 2.6 9.6 2.5 5.6 2.5 1.6 2.5-2.2 2.5-5.5 2.5-8.2 2.5-9.9 2.5-10.9 2.6-10.9 2.5-10.1 2.5-8.6 2.5-6.6 2.5-4.4 2.5-1.9 2.5 .2 2.5 2.1 2.5 3.5 2.6 4.3 2.5 4.5 2.5 4.1 2.5 3.2 2.5 1.9 2.5 .4 2.5-1.3 2.5-2.6 2.6-3.8 2.5-4.4 2.5-4.6 2.5-4 2.5-2.9 2.5-1.3 2.5 .8 2.5 3 2.6 5.3 2.5 7.4 2.5 9 2.5 10.1 2.5 10.4 2.5 9.9 2.5 8.4 2.5 6.1 2.6 3.1 2.5-.5 2.5-4.4 2.5-8.3 2.5-12 2.5-15 2.5-17.4 2.5-18.5-.5-6.3-2.5 18.4-2.5 17.5-2.6 15.5-2.5 12.7-2.5 9.2-2.5 5.4-2.5 1.5-2.5-2.1-2.5-5.3-2.5-7.8-2.6-9.4-2.5-10.2-2.5-10.1-2.5-9.3-2.5-7.7-2.5-5.7-2.5-3.5-2.5-1.3-2.5 .9-2.6 2.6-2.5 3.9-2.5 4.5-2.5 4.6-2.5 4.1-2.5 3.1-2.5 1.6-2.5 .1-2.6-1.5-2.5-3-2.5-4-2.5-4.7-2.5-4.6-2.5-4-2.5-2.9-2.5-1-2.6 1-2.5 3.5-2.5 5.8-2.5 7.9-2.5 9.7-2.5 10.8-2.5 11-2.5 10.5-2.5 9.1-2.6 6.6-2.5 3.6-2.5-.1-2.5-4-2.5-8.1-2.5-11.9z"/><path class="r" d="M36.9 -72.9l1.2 6.4 1.3 5.5 1.2 4.5 1.3 3.6 1.3 2.5 1.2 1.5 1.3 .5 1.2-.4 1.3-1.4 1.2-2.2 1.3-3 1.3-3.6 1.2-4.3 1.3-4.8 1.2-5.1 1.3-5.4 1.2-5.5 1.3-5.5 1.2-5.5 1.3-5.3 1.3-5 1.2-4.7 1.3-4.2 1.2-3.7 1.3-3.2 1.2-2.6 1.3-2 1.2-1.5 1.3-.8 1.3-.2 1.2 .3 1.3 .7 1.2 1.3 1.3 1.6 1.2 1.9 1.3 2.1 1.3 2.3 1.2 2.3 1.3 2.4 1.2 2.3 1.3 2.1 1.2 1.9 1.3 1.6 1.2 1.4 1.3 .9 1.3 .6 1.2 .2 1.3-.3 1.2-.6 1.3-1 1.2-1.4 1.3-1.7 1.2-1.9 1.3-2.2 1.3-2.2 1.2-2.4 1.3-2.3 1.2-2.2 1.3-2.1 1.2-1.8 1.3-1.5 1.3-1.1 1.2-.7 1.3-.2 1.2 .4 1.3 .9 1.2 1.4 1.3 2.1 1.2 2.6 1.3 3.1 1.3 3.6 1.2 4.1 1.3 4.5 1.2 4.8 1.3 5 1.2 5.1 1.3 5.1 1.2 5.1 1.3 4.9 1.3 4.5 1.2 4.2 1.3 3.6 1.2 3 1.3 2.3 1.2 1.5 1.3 .6 1.3-.3 1.2-1.2 1.3-2.2 1.2-3.2 1.3-4.1 1.2-5.1 1.3-5.9 1.2-6.8 1.3-7.5 1.3-8 1.2-8.6 1.3-8.9 1.2-9.2 1.3-9.2"/><path class="c" d="M162.5 -135.8m0 0l.5 6.3m-1.8 2.9l.6 6.4m-1.8 2.8l.5 6.4m-1.8 2.5l.6 6.4m-1.8 2.2l.5 6.3m-1.8 1.7l.6 6.1m-1.9 1.4l.6 5.8m-1.8 1l.5 5.5m-1.8 .4l.6 5.1m-1.8 0l.5 4.7m-1.8-.6l.6 4.2m-1.8-1l.5 3.7m-1.8-1.5l.6 3.2m-1.8-2l.5 2.7m-1.8-2.4l.6 2.2m-1.9-2.8l.6 1.7m-1.8-3.2l.5 1.2m-1.8-3.5l.6 .8m-1.8-3.8l.5 .4m-1.8-4l.6 0m-1.8-4.2l.5-.2m-1.8-4.3l.6-.5m-1.9-4.4l.6-.7m-1.8-4.4l.5-.8m-1.8-4.3l.6-.9m-1.8-4.2l.5-.9m-1.8-4.1l.6-.9m-1.8-3.9l.5-.8m-1.8-3.7l.6-.6m-1.8-3.5l.5-.4m-1.8-3.2l.6-.3m-1.9-2.8l.6-.1m-1.8-2.5l.5 .1m-1.8-2.2l.6 .4m-1.8-1.8l.5 .6m-1.8-1.5l.6 .9m-1.8-1.3l.5 1.1m-1.8-.9l.6 1.3m-1.8-.6l.5 1.5m-1.8-.4l.6 1.7m-1.9-.2l.6 1.8m-1.8 0l.5 1.9m-1.8 .2l.6 1.9m-1.8 .3l.5 2m-1.8 .3l.6 2m-1.8 .4l.5 1.8m-1.8 .4l.6 1.8m-1.9 .4l.6 1.6m-1.8 .3l.5 1.5m-1.8 .2l.6 1.3m-1.8 .1l.5 1m-1.8 0l.6 .8m-1.8-.2l.5 .7m-1.8-.4l.6 .4m-1.8-.6l.5 .2m-1.8-.8l.6 .1m-1.9-1l.6-.2m-1.8-1.2l.5-.2m-1.8-1.4l.6-.4m-1.8-1.5l.5-.4m-1.8-1.7l.6-.5m-1.8-1.8l.5-.4m-1.8-2l.6-.3m-1.8-2l.5-.2m-1.8-2.1l.5 0m-1.8-2.1l.6 .2m-1.8-2.1l.5 .5m-1.8-2.1l.6 .9m-1.8-2.2l.5 1.3m-1.8-2l.6 1.6m-1.8-1.9l.5 2.1m-1.8-1.9l.6 2.6m-1.9-1.8l.6 3m-1.8-1.5l.5 3.4m-1.8-1.4l.6 3.9m-1.8-1.3l.5 4.3m-1.8-1.1l.6 4.7m-1.8-1l.5 5.1m-1.8-.9l.6 5.4m-1.8-.7l.5 5.6m-1.8-.6l.6 5.8m-1.9-.5l.6 5.9m-1.8-.4l.5 5.9m-1.8-.4l.6 5.9m-1.8-.4l.5 5.8m-1.8-.4l.6 5.5m-1.8-.4l.5 5.2m-1.8-.4l.6 4.8m-1.8-.5l.5 4.3m-1.8-.7l.5 3.8m-1.8-.8l.6 3.2m-1.8-1l.5 2.6m-1.8-1.2l.6 1.8m-1.8-1.4l.5 1.1m-1.8-1.6l.6 .3m-1.8-1.8l.5-.5m-1.8-2l.6-1.3m-1.9-2.3l.6-2.1m-1.8-2.4l.5-2.8m-1.8-2.7l.6-3.5m-1.8-2.9l.5-4.1"/><path class="s" d="M45 -48.6L44.4 -48.9M80.1 -123.9L79.6 -124.4M95.2 -102.4L94.7 -102.6M120.3 -126.1L119.8 -126.7M142.9 -56.5L142.4 -57.7M78.3 -126L79.6 -124.4M141.1 -60L142.4 -57.7"/></g>
<g transform="translate(62.6 279.4)"><path class="fgL" d="M37.4 -82.9l2.5 14.6 2.5 11.2 2.5 7.2 2.5 3.2 2.5-.7 2.6-4.3 2.5-7.3 2.5-9.4 2.5-10.6 2.5-11.1 2.5-10.5 2.5-9.2 2.5-7.5 2.6-5.2 2.5-2.9 2.5-.7 2.5 1.4 2.5 2.9 2.5 4 2.5 4.3 2.5 4.2 2.6 3.4 2.5 2.3 2.5 .7 2.5-.8 2.5-2.2 2.5-3.5 2.5-4.2 2.5-4.5 2.5-4.2 2.6-3.1 2.5-1.7 2.5 .3 2.5 2.5 2.5 4.8 2.5 7 2.5 8.8 2.5 10 2.6 10.6 2.5 10.3 2.5 9.1 2.5 6.9 2.5 4.1 2.5 .6 2.5-3.4 2.5-7.3 2.6-11.2 2.5-14.6 2.5-17.1 2.5-18.7-.6-6.5-2.5 18.5-2.5 17.4-2.5 15-2.5 12-2.5 8.3-2.5 4.4-2.5 .5-2.6-3.1-2.5-6.1-2.5-8.4-2.5-9.9-2.5-10.4-2.5-10.1-2.5-9-2.5-7.4-2.6-5.3-2.5-3-2.5-.8-2.5 1.3-2.5 2.9-2.5 4-2.5 4.6-2.5 4.4-2.6 3.8-2.5 2.6-2.5 1.3-2.5-.4-2.5-1.9-2.5-3.2-2.5-4.1-2.5-4.5-2.6-4.3-2.5-3.5-2.5-2.1-2.5-.2-2.5 1.9-2.5 4.4-2.5 6.6-2.5 8.6-2.5 10.1-2.6 10.9-2.5 10.9-2.5 9.9-2.5 8.2-2.5 5.5-2.5 2.2-2.5-1.6-2.5-5.6-2.6-9.6-2.5-13.2z"/><path class="r" d="M36.8 -78.4l1.3 7 1.2 6.2 1.3 5.2 1.3 4.4 1.2 3.3 1.3 2.3 1.2 1.3 1.3 .3 1.2-.6 1.3-1.6 1.2-2.4 1.3-3.1 1.3-3.8 1.2-4.4 1.3-4.8 1.2-5.1 1.3-5.4 1.2-5.5 1.3-5.5 1.3-5.4 1.2-5.2 1.3-4.9 1.2-4.5 1.3-4.1 1.2-3.6 1.3-3 1.2-2.5 1.3-1.9 1.3-1.2 1.2-.7 1.3-.2 1.2 .4 1.3 .9 1.2 1.2 1.3 1.6 1.2 1.9 1.3 2.1 1.3 2.2 1.2 2.3 1.3 2.2 1.2 2.2 1.3 1.9 1.2 1.8 1.3 1.4 1.3 1.2 1.2 .7 1.3 .4 1.2 0 1.3-.5 1.2-.8 1.3-1.1 1.2-1.5 1.3-1.8 1.3-2 1.2-2.2 1.3-2.2 1.2-2.3 1.3-2.3 1.2-2.1 1.3-1.9 1.3-1.6 1.2-1.3 1.3-.9 1.2-.4 1.3 .2 1.2 .6 1.3 1.2 1.2 1.8 1.3 2.4 1.3 2.9 1.2 3.5 1.3 3.9 1.2 4.3 1.3 4.7 1.2 5 1.3 5.1 1.2 5.2 1.3 5.2 1.3 5.1 1.2 4.8 1.3 4.4 1.2 4 1.3 3.4 1.2 2.7 1.3 2 1.3 1.1 1.2 .2 1.3-.7 1.2-1.7 1.3-2.7 1.2-3.6 1.3-4.7 1.2-5.5 1.3-6.5 1.3-7.2 1.2-7.8 1.3-8.5 1.2-8.9 1.3-9.2 1.2-9.3"/><path class="c" d="M162.4 -130.9m0 0l.6 6.5m-1.8 2.8l.5 6.6m-1.8 2.6l.6 6.7m-1.8 2.2l.5 6.6m-1.8 1.9l.6 6.4m-1.8 1.4l.5 6.3m-1.8 .9l.6 6m-1.9 .5l.6 5.5m-1.8 0l.5 5.2m-1.8-.5l.6 4.7m-1.8-1.1l.5 4.2m-1.8-1.5l.6 3.7m-1.8-2l.5 3.2m-1.8-2.5l.6 2.6m-1.8-2.8l.5 2.1m-1.8-3.2l.5 1.6m-1.8-3.6l.6 1.1m-1.8-3.8l.5 .6m-1.8-4l.6 .3m-1.8-4.3l.5-.1m-1.8-4.3l.6-.4m-1.8-4.4l.5-.6m-1.8-4.5l.6-.8m-1.9-4.4l.6-.9m-1.8-4.3l.5-1m-1.8-4.1l.6-1m-1.8-4l.5-.9m-1.8-3.8l.6-.8m-1.8-3.5l.5-.7m-1.8-3.2l.6-.6m-1.8-2.9l.5-.3m-1.8-2.6l.6-.1m-1.9-2.3l.6 .2m-1.8-2l.5 .4m-1.8-1.6l.6 .7m-1.8-1.3l.5 .9m-1.8-1.1l.6 1.2m-1.8-.8l.5 1.4m-1.8-.5l.6 1.6m-1.8-.3l.5 1.7m-1.8-.1l.5 1.8m-1.8 .1l.6 1.9m-1.8 .2l.5 2m-1.8 .3l.6 1.9m-1.8 .4l.5 1.9m-1.8 .3l.6 1.9m-1.8 .3l.5 1.7m-1.8 .3l.6 1.6m-1.9 .2l.6 1.4m-1.8 .1l.5 1.2m-1.8-.1l.6 1m-1.8-.2l.5 .8m-1.8-.3l.6 .5m-1.8-.5l.5 .3m-1.8-.7l.6 .2m-1.8-.9l.5-.1m-1.8-1.1l.6-.2m-1.9-1.2l.6-.4m-1.8-1.4l.5-.4m-1.8-1.5l.6-.5m-1.8-1.7l.5-.5m-1.8-1.7l.6-.5m-1.8-1.8l.5-.3m-1.8-1.9l.6-.2m-1.9-1.9l.6 0m-1.8-1.9l.5 .3m-1.8-1.9l.6 .6m-1.8-1.8l.5 .9m-1.8-1.8l.6 1.3m-1.8-1.7l.5 1.8m-1.8-1.6l.6 2.2m-1.8-1.5l.5 2.6m-1.8-1.4l.6 3.2m-1.9-1.3l.6 3.6m-1.8-1.1l.5 4m-1.8-1l.6 4.5m-1.8-.9l.5 4.9m-1.8-.8l.6 5.2m-1.8-.7l.5 5.5m-1.8-.6l.6 5.8m-1.8-.6l.5 5.9m-1.8-.5l.6 6m-1.9-.5l.6 6.1m-1.8-.6l.5 6m-1.8-.6l.6 5.8m-1.8-.7l.5 5.6m-1.8-.8l.6 5.3m-1.8-.9l.5 4.9m-1.8-1.1l.6 4.4m-1.9-1.3l.6 3.8m-1.8-1.4l.5 3.2m-1.8-1.6l.6 2.4m-1.8-1.8l.5 1.7m-1.8-2l.6 .9m-1.8-2.2l.5 .1m-1.8-2.4l.6-.7m-1.8-2.6l.5-1.5m-1.8-2.9l.6-2.3m-1.9-2.9l.6-3.1m-1.8-3.1l.5-3.8m-1.8-3.2l.6-4.5"/><path class="s" d="M46.2 -47.8L45.6 -48.7M80.1 -124.7L79.5 -125.3M95.2 -103.6L94.6 -103.8M121.5 -125.9L121 -126.3M142.9 -56.8L142.3 -57.9M44.4 -50L45.6 -48.7M119.7 -127.5L121 -126.3"/></g>
<g transform="translate(63.1 280.7)"><path class="fgL" d="M37.4 -88.9l2.6 16 2.5 12.7 2.5 9 2.5 4.9 2.5 .7 2.5-3 2.5-6.3 2.5-8.8 2.5-10.4 2.6-11.1 2.5-11 2.5-9.9 2.5-8.3 2.5-6.2 2.5-3.9 2.5-1.5 2.5 .6 2.6 2.3 2.5 3.6 2.5 4.2 2.5 4.2 2.5 3.6 2.5 2.6 2.5 1.2 2.5-.3 2.6-1.8 2.5-3.1 2.5-4.1 2.5-4.4 2.5-4.3 2.5-3.4 2.5-2.1 2.5-.3 2.6 2 2.5 4.3 2.5 6.6 2.5 8.6 2.5 10 2.5 10.7 2.5 10.7 2.5 9.7 2.5 7.8 2.6 5.1 2.5 1.7 2.5-2.2 2.5-6.4 2.5-10.4 2.5-14 2.5-16.9 2.5-18.9-.5-6.6-2.5 18.7-2.5 17.1-2.5 14.6-2.6 11.2-2.5 7.3-2.5 3.4-2.5-.6-2.5-4.1-2.5-6.9-2.5-9.1-2.5-10.3-2.6-10.6-2.5-10-2.5-8.8-2.5-7-2.5-4.8-2.5-2.5-2.5-.3-2.5 1.7-2.6 3.1-2.5 4.2-2.5 4.5-2.5 4.2-2.5 3.5-2.5 2.2-2.5 .8-2.5-.7-2.5-2.3-2.6-3.4-2.5-4.2-2.5-4.3-2.5-4-2.5-2.9-2.5-1.4-2.5 .7-2.5 2.9-2.6 5.2-2.5 7.5-2.5 9.2-2.5 10.5-2.5 11.1-2.5 10.6-2.5 9.4-2.5 7.3-2.6 4.3-2.5 .7-2.5-3.2-2.5-7.2-2.5-11.2-2.5-14.6z"/><path class="r" d="M36.9 -84.2l1.2 7.7 1.3 6.9 1.3 6 1.2 5.2 1.3 4.1 1.2 3.1 1.3 2.1 1.2 1.1 1.3 .1 1.2-.8 1.3-1.8 1.3-2.5 1.2-3.3 1.3-4 1.2-4.5 1.3-4.9 1.2-5.2 1.3-5.4 1.3-5.6 1.2-5.5 1.3-5.3 1.2-5.2 1.3-4.8 1.2-4.4 1.3-4 1.2-3.5 1.3-2.9 1.3-2.3 1.2-1.8 1.3-1.1 1.2-.6 1.3-.1 1.2 .5 1.3 .9 1.2 1.3 1.3 1.6 1.3 1.9 1.2 2.1 1.3 2.1 1.2 2.2 1.3 2.2 1.2 2 1.3 1.8 1.3 1.6 1.2 1.3 1.3 1 1.2 .5 1.3 .2 1.2-.2 1.3-.6 1.2-.9 1.3-1.3 1.3-1.6 1.2-1.9 1.3-2 1.2-2.2 1.3-2.3 1.2-2.2 1.3-2.2 1.2-2 1.3-1.7 1.3-1.4 1.2-1.1 1.3-.6 1.2-.1 1.3 .4 1.2 .9 1.3 1.6 1.3 2.1 1.2 2.7 1.3 3.2 1.2 3.8 1.3 4.2 1.2 4.6 1.3 4.9 1.2 5.1 1.3 5.3 1.3 5.3 1.2 5.3 1.3 5 1.2 4.7 1.3 4.4 1.2 3.7 1.3 3.2 1.2 2.5 1.3 1.6 1.3 .7 1.2-.1 1.3-1.2 1.2-2.2 1.3-3.1 1.2-4.2 1.3-5.2 1.3-6 1.2-6.9 1.3-7.7 1.2-8.3 1.3-8.8 1.2-9.3 1.3-9.4"/><path class="c" d="M162.5 -125.7m0 0l.5 6.6m-1.8 2.8l.6 6.8m-1.8 2.5l.5 6.8m-1.8 2l.6 6.8m-1.8 1.5l.5 6.6m-1.8 1.1l.6 6.3m-1.8 .6l.5 6m-1.8 0l.6 5.7m-1.9-.5l.6 5.2m-1.8-1l.5 4.7m-1.8-1.6l.6 4.3m-1.8-2.1l.5 3.7m-1.8-2.5l.6 3.1m-1.8-3l.5 2.6m-1.8-3.3l.6 2m-1.9-3.6l.6 1.5m-1.8-4l.5 1m-1.8-4.2l.6 .6m-1.8-4.3l.5 .1m-1.8-4.5l.6-.2m-1.8-4.5l.5-.5m-1.8-4.5l.6-.8m-1.8-4.5l.5-.9m-1.8-4.4l.6-1m-1.9-4.3l.6-1m-1.8-4.1l.5-1.1m-1.8-3.8l.6-1m-1.8-3.6l.5-.9m-1.8-3.3l.6-.8m-1.8-3l.5-.6m-1.8-2.6l.6-.4m-1.8-2.3l.5-.1m-1.8-2l.6 .1m-1.9-1.7l.6 .4m-1.8-1.3l.5 .6m-1.8-1l.6 .9m-1.8-.8l.5 1.2m-1.8-.6l.6 1.4m-1.8-.3l.5 1.6m-1.8-.2l.6 1.7m-1.9 0l.6 1.9m-1.8 .1l.5 2m-1.8 .2l.6 2m-1.8 .2l.5 2m-1.8 .3l.6 1.9m-1.8 .3l.5 1.8m-1.8 .2l.6 1.8m-1.8 .1l.5 1.6m-1.8 0l.6 1.4m-1.9-.1l.6 1.2m-1.8-.3l.5 1m-1.8-.4l.6 .8m-1.8-.6l.5 .5m-1.8-.7l.6 .3m-1.8-.8l.5 0m-1.8-1l.6-.1m-1.8-1.2l.5-.3m-1.8-1.3l.5-.4m-1.8-1.4l.6-.5m-1.8-1.5l.5-.6m-1.8-1.6l.6-.5m-1.8-1.7l.5-.5m-1.8-1.6l.6-.4m-1.8-1.7l.5-.2m-1.8-1.7l.6 0m-1.9-1.6l.6 .3m-1.8-1.6l.5 .6m-1.8-1.5l.6 .9m-1.8-1.4l.5 1.4m-1.8-1.3l.6 1.8m-1.8-1.2l.5 2.2m-1.8-1.1l.6 2.8m-1.8-1l.5 3.2m-1.8-.9l.6 3.7m-1.9-.8l.6 4.2m-1.8-.7l.5 4.6m-1.8-.6l.6 5m-1.8-.6l.5 5.4m-1.8-.6l.6 5.7m-1.8-.5l.5 5.9m-1.8-.6l.6 6.2m-1.8-.7l.5 6.3m-1.8-.7l.5 6.2m-1.8-.8l.6 6.1m-1.8-.9l.5 6m-1.8-1.1l.6 5.8m-1.8-1.3l.5 5.4m-1.8-1.4l.6 4.9m-1.8-1.6l.5 4.4m-1.8-1.9l.6 3.8m-1.9-2l.6 3.1m-1.8-2.3l.5 2.4m-1.8-2.5l.6 1.7m-1.8-2.8l.5 .8m-1.8-2.9l.6 0m-1.8-3.1l.5-.9m-1.8-3.2l.6-1.8m-1.8-3.4l.5-2.5m-1.8-3.5l.6-3.3m-1.9-3.6l.6-4.1m-1.8-3.6l.5-4.7"/><path class="s" d="M46.2 -48.3L45.7 -49.1M80.1 -125.4L79.6 -126M96.5 -104.1L95.9 -104.4M121.6 -126.8L121 -127.2M142.9 -57.1L142.4 -58.1M94.7 -104.9L95.9 -104.4"/></g>
<g transform="translate(63.7 282.1)"><path class="fgL" d="M37.4 -95.3l2.5 17.3 2.5 14.5 2.5 10.7 2.5 6.6 2.6 2.3 2.5-1.7 2.5-5.3 2.5-8.1 2.5-10.1 2.5-11.2 2.5-11.4 2.5-10.6 2.6-9.1 2.5-7.2 2.5-4.9 2.5-2.5 2.5-.2 2.5 1.7 2.5 3.1 2.5 4 2.5 4.3 2.6 3.8 2.5 3 2.5 1.7 2.5 .2 2.5-1.4 2.5-2.8 2.5-3.8 2.5-4.4 2.6-4.4 2.5-3.7 2.5-2.5 2.5-.8 2.5 1.5 2.5 3.7 2.5 6.2 2.5 8.3 2.6 9.9 2.5 10.9 2.5 11.1 2.5 10.4 2.5 8.7 2.5 6.1 2.5 2.8 2.5-1.1 2.5-5.3 2.6-9.5 2.5-13.4 2.5-16.7 2.5-18.9-.6-7-2.5 18.9-2.5 16.9-2.5 14-2.5 10.4-2.5 6.4-2.5 2.2-2.5-1.7-2.6-5.1-2.5-7.8-2.5-9.7-2.5-10.7-2.5-10.7-2.5-10-2.5-8.6-2.5-6.6-2.5-4.3-2.6-2-2.5 .3-2.5 2.1-2.5 3.4-2.5 4.3-2.5 4.4-2.5 4.1-2.5 3.1-2.6 1.8-2.5 .3-2.5-1.2-2.5-2.6-2.5-3.6-2.5-4.2-2.5-4.2-2.5-3.6-2.6-2.3-2.5-.6-2.5 1.5-2.5 3.9-2.5 6.2-2.5 8.3-2.5 9.9-2.5 11-2.6 11.1-2.5 10.4-2.5 8.8-2.5 6.3-2.5 3-2.5-.7-2.5-4.9-2.5-9-2.5-12.7-2.6-16z"/><path class="r" d="M36.8 -90.3l1.3 8.3 1.3 7.7 1.2 6.8 1.3 5.9 1.2 5 1.3 4 1.2 2.9 1.3 2 1.2 .8 1.3-.1 1.3-1.1 1.2-1.9 1.3-2.8 1.2-3.5 1.3-4.1 1.2-4.7 1.3-5.1 1.2-5.3 1.3-5.5 1.3-5.6 1.2-5.6 1.3-5.4 1.2-5.1 1.3-4.8 1.2-4.4 1.3-3.9 1.3-3.4 1.2-2.8 1.3-2.2 1.2-1.7 1.3-1 1.2-.5 1.3 0 1.2 .6 1.3 1 1.3 1.3 1.2 1.7 1.3 1.9 1.2 2 1.3 2.2 1.2 2.1 1.3 2.1 1.2 1.9 1.3 1.7 1.3 1.5 1.2 1.1 1.3 .8 1.2 .4 1.3 .1 1.2-.4 1.3-.7 1.3-1.1 1.2-1.4 1.3-1.7 1.2-2 1.3-2.1 1.2-2.2 1.3-2.2 1.2-2.2 1.3-2.1 1.3-1.9 1.2-1.5 1.3-1.3 1.2-.8 1.3-.4 1.2 .1 1.3 .7 1.3 1.3 1.2 1.9 1.3 2.4 1.2 3 1.3 3.6 1.2 4.1 1.3 4.5 1.2 4.8 1.3 5.2 1.3 5.3 1.2 5.4 1.3 5.4 1.2 5.3 1.3 5 1.2 4.7 1.3 4.2 1.2 3.6 1.3 3 1.3 2.1 1.2 1.3 1.3 .4 1.2-.6 1.3-1.6 1.2-2.7 1.3-3.7 1.3-4.7 1.2-5.7 1.3-6.6 1.2-7.4 1.3-8.1 1.2-8.8 1.3-9.3 1.2-9.6"/><path class="c" d="M162.4 -120.5m0 0l.6 7m-1.8 2.6l.5 7.1m-1.8 2.2l.6 7m-1.8 1.8l.5 6.9m-1.8 1.2l.6 6.8m-1.8 .6l.5 6.5m-1.8 .1l.6 6.2m-1.8-.5l.5 5.7m-1.8-1l.5 5.3m-1.8-1.6l.6 4.8m-1.8-2.1l.5 4.2m-1.8-2.6l.6 3.6m-1.8-3l.5 3.1m-1.8-3.5l.6 2.5m-1.8-3.8l.5 2m-1.8-4.1l.6 1.4m-1.9-4.4l.6 1m-1.8-4.6l.5 .5m-1.8-4.7l.6 .1m-1.8-4.8l.5-.2m-1.8-4.8l.6-.6m-1.8-4.7l.5-.8m-1.8-4.6l.6-1m-1.8-4.4l.5-1.1m-1.8-4.2l.6-1.2m-1.9-4l.6-1.1m-1.8-3.7l.5-1.1m-1.8-3.4l.6-1m-1.8-3.1l.5-.8m-1.8-2.8l.6-.6m-1.8-2.4l.5-.4m-1.8-2l.6-.1m-1.8-1.8l.5 .2m-1.8-1.5l.5 .5m-1.8-1.2l.6 .7m-1.8-.8l.5 1m-1.8-.6l.6 1.2m-1.8-.4l.5 1.4m-1.8-.1l.6 1.6m-1.8-.1l.5 1.8m-1.8 .1l.6 1.9m-1.9 .2l.6 2m-1.8 .2l.5 2m-1.8 .2l.6 2m-1.8 .2l.5 2m-1.8 .1l.6 1.9m-1.8 .1l.5 1.7m-1.8 0l.6 1.6m-1.8-.2l.5 1.4m-1.8-.3l.6 1.2m-1.9-.5l.6 1m-1.8-.6l.5 .7m-1.8-.8l.6 .5m-1.8-.9l.5 .2m-1.8-1l.6 0m-1.8-1.1l.5-.2m-1.8-1.3l.6-.4m-1.9-1.3l.6-.5m-1.8-1.4l.5-.6m-1.8-1.5l.6-.6m-1.8-1.5l.5-.7m-1.8-1.5l.6-.5m-1.8-1.5l.5-.5m-1.8-1.4l.6-.3m-1.8-1.4l.5 0m-1.8-1.3l.6 .2m-1.9-1.2l.6 .6m-1.8-1.2l.5 1m-1.8-1l.6 1.4m-1.8-.9l.5 1.9m-1.8-.9l.6 2.4m-1.8-.7l.5 2.8m-1.8-.6l.6 3.4m-1.8-.6l.5 3.9m-1.8-.5l.6 4.4m-1.9-.5l.6 4.8m-1.8-.4l.5 5.2m-1.8-.4l.6 5.6m-1.8-.5l.5 5.9m-1.8-.5l.6 6.2m-1.8-.6l.5 6.3m-1.8-.7l.6 6.4m-1.9-.9l.6 6.4m-1.8-1.1l.5 6.3m-1.8-1.2l.6 6.1m-1.8-1.4l.5 5.8m-1.8-1.7l.6 5.4m-1.8-1.9l.5 5m-1.8-2.2l.6 4.4m-1.8-2.5l.5 3.8m-1.8-2.7l.6 3.1m-1.9-3l.6 2.4m-1.8-3.2l.5 1.5m-1.8-3.5l.6 .7m-1.8-3.6l.5-.2m-1.8-3.8l.6-1.1m-1.8-3.9l.5-1.9m-1.8-4l.6-2.8m-1.8-4l.5-3.7m-1.8-4l.6-4.3m-1.9-4l.6-5"/><path class="s" d="M46.2 -49L45.6 -49.7M81.4 -125.6L80.8 -125.8M96.4 -105.3L95.9 -105.5M121.5 -127.7L121 -128.2M144.2 -54.1L143.6 -55.5M79.5 -126.8L80.8 -125.8M142.3 -58.5L143.6 -55.5"/></g>
<g transform="translate(64.2 283.5)"><path class="fgL" d="M37.4 -102l2.6 18.8 2.5 16.1 2.5 12.5 2.5 8.4 2.5 4 2.5-.4 2.5-4.1 2.5-7.4 2.6-9.9 2.5-11.2 2.5-11.8 2.5-11.3 2.5-10 2.5-8.2 2.5-5.9 2.5-3.5 2.6-1.1 2.5 1 2.5 2.7 2.5 3.8 2.5 4.3 2.5 4.1 2.5 3.3 2.5 2.2 2.5 .7 2.6-.9 2.5-2.4 2.5-3.6 2.5-4.3 2.5-4.5 2.5-4 2.5-3 2.5-1.2 2.6 .8 2.5 3.2 2.5 5.7 2.5 8 2.5 9.8 2.5 11.1 2.5 11.5 2.5 11 2.6 9.6 2.5 7.2 2.5 4 2.5 0 2.5-4.2 2.5-8.6 2.5-12.7 2.5-16.4 2.6-19-.6-7.1-2.5 18.9-2.5 16.7-2.5 13.4-2.6 9.5-2.5 5.3-2.5 1.1-2.5-2.8-2.5-6.1-2.5-8.7-2.5-10.4-2.5-11.1-2.5-10.9-2.6-9.9-2.5-8.3-2.5-6.2-2.5-3.7-2.5-1.5-2.5 .8-2.5 2.5-2.5 3.7-2.6 4.4-2.5 4.4-2.5 3.8-2.5 2.8-2.5 1.4-2.5-.2-2.5-1.7-2.5-3-2.6-3.8-2.5-4.3-2.5-4-2.5-3.1-2.5-1.7-2.5 .2-2.5 2.5-2.5 4.9-2.5 7.2-2.6 9.1-2.5 10.6-2.5 11.4-2.5 11.2-2.5 10.1-2.5 8.1-2.5 5.3-2.5 1.7-2.6-2.3-2.5-6.6-2.5-10.7-2.5-14.5-2.5-17.3z"/><path class="r" d="M36.9 -96.7l1.3 9 1.2 8.3 1.3 7.7 1.2 6.8 1.3 5.8 1.2 4.9 1.3 3.8 1.2 2.8 1.3 1.7 1.3 .6 1.2-.4 1.3-1.3 1.2-2.2 1.3-3.1 1.2-3.7 1.3-4.4 1.2-4.9 1.3-5.2 1.3-5.5 1.2-5.7 1.3-5.7 1.2-5.7 1.3-5.4 1.2-5.2 1.3-4.8 1.3-4.3 1.2-3.9 1.3-3.3 1.2-2.8 1.3-2.1 1.2-1.5 1.3-1 1.2-.4 1.3 .2 1.3 .6 1.2 1.1 1.3 1.4 1.2 1.7 1.3 2 1.2 2 1.3 2.2 1.2 2.1 1.3 2 1.3 1.8 1.2 1.7 1.3 1.3 1.2 1 1.3 .7 1.2 .3 1.3-.1 1.3-.5 1.2-.9 1.3-1.2 1.2-1.6 1.3-1.8 1.2-2 1.3-2.2 1.2-2.2 1.3-2.2 1.3-2.2 1.2-2 1.3-1.7 1.2-1.5 1.3-1 1.2-.6 1.3-.2 1.2 .5 1.3 1 1.3 1.6 1.2 2.1 1.3 2.8 1.2 3.4 1.3 3.9 1.2 4.4 1.3 4.8 1.3 5.1 1.2 5.4 1.3 5.5 1.2 5.6 1.3 5.5 1.2 5.4 1.3 5 1.2 4.6 1.3 4.1 1.3 3.4 1.2 2.7 1.3 1.8 1.2 1 1.3-.1 1.2-1 1.3-2.1 1.2-3.2 1.3-4.3 1.3-5.2 1.2-6.3 1.3-7.1 1.2-8 1.3-8.7 1.2-9.2 1.3-9.7"/><path class="c" d="M162.5 -114.9m0 0l.6 7.1m-1.9 2.6l.6 7.2m-1.8 2l.5 7.2m-1.8 1.5l.6 7.1m-1.8 .9l.5 6.9m-1.8 .2l.6 6.6m-1.8-.3l.5 6.2m-1.8-1l.6 5.9m-1.9-1.6l.6 5.3m-1.8-2.1l.5 4.8m-1.8-2.7l.6 4.2m-1.8-3.2l.5 3.7m-1.8-3.6l.6 3.1m-1.8-4.1l.5 2.5m-1.8-4.3l.6 1.9m-1.8-4.6l.5 1.4m-1.8-4.8l.6 .8m-1.9-4.9l.6 .4m-1.8-5l.5-.1m-1.8-4.9l.6-.5m-1.8-4.9l.5-.7m-1.8-4.8l.6-.9m-1.8-4.7l.5-1.1m-1.8-4.4l.6-1.2m-1.8-4.2l.5-1.3m-1.8-3.8l.6-1.3m-1.9-3.5l.6-1.2m-1.8-3.2l.5-1m-1.8-2.9l.6-.9m-1.8-2.5l.5-.6m-1.8-2.2l.6-.4m-1.8-1.7l.5-.2m-1.8-1.4l.6 .1m-1.9-1.1l.6 .4m-1.8-.9l.5 .8m-1.8-.6l.6 1m-1.8-.4l.5 1.2m-1.8-.2l.6 1.5m-1.8 0l.5 1.7m-1.8 0l.6 1.9m-1.8 .1l.5 2m-1.8 .2l.6 2m-1.9 .2l.6 2.1m-1.8 .1l.5 2.1m-1.8 .1l.6 2m-1.8 0l.5 1.9m-1.8-.1l.6 1.8m-1.8-.2l.5 1.5m-1.8-.3l.6 1.4m-1.8-.5l.5 1.1m-1.8-.6l.5 .9m-1.8-.8l.6 .6m-1.8-.9l.5 .4m-1.8-1.1l.6 .2m-1.8-1.2l.5-.1m-1.8-1.2l.6-.3m-1.8-1.4l.5-.4m-1.8-1.4l.6-.6m-1.9-1.4l.6-.7m-1.8-1.4l.5-.7m-1.8-1.5l.6-.7m-1.8-1.3l.5-.7m-1.8-1.3l.6-.5m-1.8-1.2l.5-.3m-1.8-1.1l.6-.1m-1.8-1l.5 .3m-1.8-.9l.6 .6m-1.9-.8l.6 1.1m-1.8-.7l.5 1.5m-1.8-.5l.6 1.9m-1.8-.4l.5 2.5m-1.8-.4l.6 3m-1.8-.2l.5 3.5m-1.8-.2l.6 4m-1.8-.1l.5 4.5m-1.8-.2l.5 5m-1.8-.2l.6 5.4m-1.8-.2l.5 5.8m-1.8-.4l.6 6.1m-1.8-.4l.5 6.3m-1.8-.6l.6 6.5m-1.8-.8l.5 6.5m-1.8-1l.6 6.5m-1.9-1.3l.6 6.5m-1.8-1.6l.5 6.3m-1.8-1.9l.6 5.9m-1.8-2.2l.5 5.6m-1.8-2.5l.6 5m-1.8-2.8l.5 4.4m-1.8-3.1l.6 3.8m-1.8-3.4l.5 3.1m-1.8-3.7l.6 2.2m-1.9-3.9l.6 1.4m-1.8-4.2l.5 .5m-1.8-4.3l.6-.4m-1.8-4.5l.5-1.3m-1.8-4.5l.6-2.2m-1.8-4.6l.5-3.1m-1.8-4.6l.6-3.8m-1.8-4.5l.5-4.7m-1.8-4.3l.5-5.3"/><path class="s" d="M47.5 -46.2L46.9 -47.6M81.4 -126.7L80.9 -127M97.7 -105.6L97.2 -106M121.6 -128.7L121 -129.1M144.2 -54.1L143.7 -55.5M45.7 -50.4L46.9 -47.6M95.9 -106.7L97.2 -106"/></g>
<path d="M101.6,181.5 102.4,187.6 103.2,193.5 104.0,199.2 104.8,204.6 105.6,209.7 106.4,214.6 107.1,219.0 107.9,223.1 108.7,226.9 109.5,230.2 110.3,233.1 111.1,235.6 111.9,237.6 112.6,239.3 113.4,240.5 114.2,241.3 115.0,241.6 115.8,241.5 116.6,241.1 117.3,240.2 118.1,239.0 118.9,237.5 119.7,235.6 120.5,233.4 121.3,231.0 122.1,228.2 122.8,225.3 123.6,222.2 124.4,218.9 125.2,215.4 126.0,211.9 126.8,208.3 127.6,204.6 128.3,200.9 129.1,197.3 129.9,193.6 130.7,190.1 131.5,186.6 132.3,183.2 133.0,180.0 133.8,176.9 134.6,174.0 135.4,171.3 136.2,168.8 137.0,166.5 137.8,164.5 138.5,162.6 139.3,161.1 140.1,159.7 140.9,158.6 141.7,157.7 142.5,157.1 143.3,156.7 144.0,156.5 144.8,156.6 145.6,156.8 146.4,157.2 147.2,157.8 148.0,158.6 148.7,159.4 149.5,160.5 150.3,161.6 151.1,162.8 151.9,164.0 152.7,165.4 153.5,166.7 154.2,168.0 155.0,169.4 155.8,170.7 156.6,171.9 157.4,173.1 158.2,174.2 159.0,175.2 159.7,176.1 160.5,176.8 161.3,177.5 162.1,178.0 162.9,178.3 163.7,178.5 164.4,178.6 165.2,178.4 166.0,178.2 166.8,177.8 167.6,177.2 168.4,176.5 169.2,175.6 169.9,174.7 170.7,173.6 171.5,172.4 172.3,171.2 173.1,169.9 173.9,168.5 174.7,167.1 175.4,165.7 176.2,164.3 177.0,162.9 177.8,161.5 178.6,160.3 179.4,159.1 180.2,158.0 180.9,157.0 181.7,156.2 182.5,155.5 183.3,155.1 184.1,154.7 184.9,154.6 185.6,154.7 186.4,155.1 187.2,155.6 188.0,156.4 188.8,157.5 189.6,158.7 190.4,160.3 191.1,162.0 191.9,164.0 192.7,166.2 193.5,168.7 194.3,171.3 195.1,174.1 195.9,177.1 196.6,180.3 197.4,183.6 198.2,187.0 199.0,190.5 199.8,194.0 200.6,197.6 201.3,201.2 202.1,204.8 202.9,208.4 203.7,211.8 204.5,215.2 205.3,218.4 206.1,221.5 206.8,224.3 207.6,227.0 208.4,229.4 209.2,231.5 210.0,233.3 210.8,234.8 211.6,235.9 212.3,236.7 213.1,237.1 213.9,237.1 214.7,236.6 215.5,235.8 216.3,234.5 217.0,232.8 217.8,230.7 218.6,228.1 219.4,225.1 220.2,221.7 221.0,217.9 221.8,213.8 222.5,209.2 223.3,204.3 224.1,199.1 224.9,193.6 225.7,187.8 226.5,181.9 227.3,175.7" fill="none" stroke="#ff0000" stroke-width="4.6" stroke-linecap="butt" stroke-linejoin="round"/>
<line x1="345.4" y1="284.2" x2="310.0" y2="209.3" stroke="#ebebeb" stroke-width="0.6"/>
<line x1="310.0" y1="209.3" x2="310.0" y2="17.9" stroke="#ebebeb" stroke-width="0.6"/>
<line x1="393.4" y1="280.8" x2="358.0" y2="205.8" stroke="#ebebeb" stroke-width="0.6"/>
<line x1="358.0" y1="205.8" x2="358.0" y2="14.5" stroke="#ebebeb" stroke-width="0.6"/>
<line x1="441.3" y1="277.3" x2="405.9" y2="202.4" stroke="#ebebeb" stroke-width="0.6"/>
<line x1="405.9" y1="202.4" x2="405.9" y2="11.0" stroke="#ebebeb" stroke-width="0.6"/>
<line x1="489.3" y1="273.8" x2="453.9" y2="198.9" stroke="#ebebeb" stroke-width="0.6"/>
<line x1="453.9" y1="198.9" x2="453.9" y2="7.6" stroke="#ebebeb" stroke-width="0.6"/>
<line x1="537.3" y1="270.4" x2="501.9" y2="195.5" stroke="#ebebeb" stroke-width="0.6"/>
<line x1="501.9" y1="195.5" x2="501.9" y2="4.1" stroke="#ebebeb" stroke-width="0.6"/>
<line x1="345.4" y1="284.2" x2="537.3" y2="270.4" stroke="#ebebeb" stroke-width="0.6"/>
<line x1="537.3" y1="270.4" x2="537.3" y2="79.0" stroke="#ebebeb" stroke-width="0.6"/>
<line x1="327.7" y1="246.8" x2="519.6" y2="232.9" stroke="#ebebeb" stroke-width="0.6"/>
<line x1="519.6" y1="232.9" x2="519.6" y2="41.6" stroke="#ebebeb" stroke-width="0.6"/>
<line x1="310.0" y1="209.3" x2="501.9" y2="195.5" stroke="#ebebeb" stroke-width="0.6"/>
<line x1="501.9" y1="195.5" x2="501.9" y2="4.1" stroke="#ebebeb" stroke-width="0.6"/>
<line x1="310.0" y1="209.3" x2="501.9" y2="195.5" stroke="#ebebeb" stroke-width="0.6"/>
<line x1="501.9" y1="195.5" x2="537.3" y2="270.4" stroke="#ebebeb" stroke-width="0.6"/>
<line x1="310.0" y1="185.4" x2="501.9" y2="171.6" stroke="#ebebeb" stroke-width="0.6"/>
<line x1="501.9" y1="171.6" x2="537.3" y2="246.5" stroke="#ebebeb" stroke-width="0.6"/>
<line x1="310.0" y1="161.5" x2="501.9" y2="147.7" stroke="#ebebeb" stroke-width="0.6"/>
<line x1="501.9" y1="147.7" x2="537.3" y2="222.6" stroke="#ebebeb" stroke-width="0.6"/>
<line x1="310.0" y1="137.5" x2="501.9" y2="123.7" stroke="#ebebeb" stroke-width="0.6"/>
<line x1="501.9" y1="123.7" x2="537.3" y2="198.6" stroke="#ebebeb" stroke-width="0.6"/>
<line x1="310.0" y1="113.6" x2="501.9" y2="99.8" stroke="#ebebeb" stroke-width="0.6"/>
<line x1="501.9" y1="99.8" x2="537.3" y2="174.7" stroke="#ebebeb" stroke-width="0.6"/>
<line x1="310.0" y1="89.7" x2="501.9" y2="75.9" stroke="#ebebeb" stroke-width="0.6"/>
<line x1="501.9" y1="75.9" x2="537.3" y2="150.8" stroke="#ebebeb" stroke-width="0.6"/>
<line x1="310.0" y1="65.8" x2="501.9" y2="52.0" stroke="#ebebeb" stroke-width="0.6"/>
<line x1="501.9" y1="52.0" x2="537.3" y2="126.9" stroke="#ebebeb" stroke-width="0.6"/>
<line x1="310.0" y1="41.9" x2="501.9" y2="28.1" stroke="#ebebeb" stroke-width="0.6"/>
<line x1="501.9" y1="28.1" x2="537.3" y2="103.0" stroke="#ebebeb" stroke-width="0.6"/>
<line x1="310.0" y1="17.9" x2="501.9" y2="4.1" stroke="#ebebeb" stroke-width="0.6"/>
<line x1="501.9" y1="4.1" x2="537.3" y2="79.0" stroke="#ebebeb" stroke-width="0.6"/>
<line x1="345.4" y1="284.2" x2="537.3" y2="270.4" stroke="#707070" stroke-width="0.7"/>
<line x1="345.4" y1="284.2" x2="310.0" y2="209.3" stroke="#707070" stroke-width="0.7"/>
<line x1="310.0" y1="209.3" x2="310.0" y2="17.9" stroke="#a0a0a0" stroke-width="0.8"/>
<line x1="345.4" y1="284.2" x2="347.3" y2="288.3" stroke="#707070" stroke-width="0.7"/>
<line x1="393.4" y1="280.8" x2="395.3" y2="284.8" stroke="#707070" stroke-width="0.7"/>
<line x1="441.3" y1="277.3" x2="443.3" y2="281.4" stroke="#707070" stroke-width="0.7"/>
<line x1="489.3" y1="273.8" x2="491.2" y2="277.9" stroke="#707070" stroke-width="0.7"/>
<line x1="537.3" y1="270.4" x2="539.2" y2="274.5" stroke="#707070" stroke-width="0.7"/>
<line x1="345.4" y1="284.2" x2="340.9" y2="284.5" stroke="#707070" stroke-width="0.7"/>
<line x1="327.7" y1="246.8" x2="323.2" y2="247.1" stroke="#707070" stroke-width="0.7"/>
<line x1="310.0" y1="209.3" x2="305.5" y2="209.6" stroke="#707070" stroke-width="0.7"/>
<line x1="310.0" y1="209.3" x2="308.0" y2="205.7" stroke="#707070" stroke-width="0.7"/>
<line x1="310.0" y1="185.4" x2="308.0" y2="181.8" stroke="#707070" stroke-width="0.7"/>
<line x1="310.0" y1="161.5" x2="308.0" y2="157.9" stroke="#707070" stroke-width="0.7"/>
<line x1="310.0" y1="137.5" x2="308.0" y2="133.9" stroke="#707070" stroke-width="0.7"/>
<line x1="310.0" y1="113.6" x2="308.0" y2="110.0" stroke="#707070" stroke-width="0.7"/>
<line x1="310.0" y1="89.7" x2="308.0" y2="86.1" stroke="#707070" stroke-width="0.7"/>
<line x1="310.0" y1="65.8" x2="308.0" y2="62.2" stroke="#707070" stroke-width="0.7"/>
<line x1="310.0" y1="41.9" x2="308.0" y2="38.3" stroke="#707070" stroke-width="0.7"/>
<line x1="310.0" y1="17.9" x2="308.0" y2="14.3" stroke="#707070" stroke-width="0.7"/>
<text x="293.5" y="207.4" font-size="10.5" textLength="7.2" lengthAdjust="spacingAndGlyphs">−</text><text x="306.4" y="207.4" font-size="10.5" text-anchor="end">8</text>
<text x="293.5" y="183.5" font-size="10.5" textLength="7.2" lengthAdjust="spacingAndGlyphs">−</text><text x="306.4" y="183.5" font-size="10.5" text-anchor="end">6</text>
<text x="293.5" y="159.6" font-size="10.5" textLength="7.2" lengthAdjust="spacingAndGlyphs">−</text><text x="306.4" y="159.6" font-size="10.5" text-anchor="end">4</text>
<text x="293.5" y="135.6" font-size="10.5" textLength="7.2" lengthAdjust="spacingAndGlyphs">−</text><text x="306.4" y="135.6" font-size="10.5" text-anchor="end">2</text>
<text x="303.8" y="111.7" font-size="10.5" text-anchor="middle">0</text>
<text x="303.8" y="87.8" font-size="10.5" text-anchor="middle">2</text>
<text x="303.8" y="63.9" font-size="10.5" text-anchor="middle">4</text>
<text x="303.8" y="40.0" font-size="10.5" text-anchor="middle">6</text>
<text x="303.8" y="16.0" font-size="10.5" text-anchor="middle">8</text>
<text x="323.9" y="295.5" font-size="10.5" textLength="7.2" lengthAdjust="spacingAndGlyphs">−</text><text x="336.8" y="295.5" font-size="10.5" text-anchor="end">1</text>
<text x="316.5" y="258.1" font-size="10.5" text-anchor="middle">0</text>
<text x="298.8" y="220.6" font-size="10.5" text-anchor="middle">1</text>
<text x="337.7" y="301.0" font-size="10.5" textLength="7.2" lengthAdjust="spacingAndGlyphs">−</text><text x="355.9" y="301.0" font-size="10.5" text-anchor="end">10</text>
<text x="389.5" y="297.9" font-size="10.5" textLength="7.2" lengthAdjust="spacingAndGlyphs">−</text><text x="402.3" y="297.9" font-size="10.5" text-anchor="end">5</text>
<text x="444.8" y="293.8" font-size="10.5" text-anchor="middle">0</text>
<text x="493.3" y="291.0" font-size="10.5" text-anchor="middle">5</text>
<text x="541.8" y="287.5" font-size="10.5" text-anchor="middle">10</text>
<defs><linearGradient id="gR" gradientUnits="userSpaceOnUse" x1="-1.37" y1="-19.04" x2="-12.32" y2="-171.34"><stop offset="0%" stop-color="#352a87"/><stop offset="4.5%" stop-color="#3636a0"/><stop offset="9.1%" stop-color="#3046bd"/><stop offset="13.6%" stop-color="#135adb"/><stop offset="18.2%" stop-color="#026ae1"/><stop offset="22.7%" stop-color="#0d75dc"/><stop offset="27.3%" stop-color="#137fd6"/><stop offset="31.8%" stop-color="#128bd2"/><stop offset="36.4%" stop-color="#0899d1"/><stop offset="40.9%" stop-color="#06a4c9"/><stop offset="45.5%" stop-color="#0aacbd"/><stop offset="50%" stop-color="#1db3af"/><stop offset="54.5%" stop-color="#37b99e"/><stop offset="59.1%" stop-color="#58bd8c"/><stop offset="63.6%" stop-color="#7cbf7c"/><stop offset="68.2%" stop-color="#9cbf6e"/><stop offset="72.7%" stop-color="#b8bd63"/><stop offset="77.3%" stop-color="#d2bb58"/><stop offset="81.8%" stop-color="#ecb94d"/><stop offset="86.4%" stop-color="#fec03a"/><stop offset="90.9%" stop-color="#fad12b"/><stop offset="95.5%" stop-color="#f5e31e"/><stop offset="100%" stop-color="#f9fb0e"/></linearGradient></defs>
<g transform="translate(310.4 210)"><path class="fgR" d="M36 -114.1l2.4-18 2.4-14.4 2.4-9.7 2.4-4.7 2.4 .4 2.4 5 2.5 8.9 2.4 11.6 2.4 13.1 2.4 13.5 2.4 12.7 2.4 11 2.4 8.6 2.4 5.7 2.4 2.7 2.5-.3 2.4-3 2.4-5.4 2.4-7.3 2.4-8.3 2.4-8.7 2.4-8.4 2.4-7.1 2.4-5.3 2.5-2.8 2.4 .1 2.4 3 2.4 5.8 2.4 8 2.4 9.4 2.4 9.8 2.4 9.2 2.4 7.4 2.5 4.7 2.4 1.3 2.4-2.4 2.4-6.1 2.4-9.5 2.4-12.2 2.4-13.8 2.4-14.5 2.5-14 2.4-12.4 2.4-9.9 2.4-6.4 2.4-2.4 2.4 2.1 2.4 6.6 2.4 11 2.4 15-.7 3-2.4-17.1-2.4-12.9-2.4-8.3-2.4-3.2-2.4 1.7-2.4 6.2-2.4 10-2.5 12.8-2.4 14.4-2.4 14.9-2.4 14-2.4 12.3-2.4 9.6-2.4 6.3-2.4 2.8-2.4-.7-2.5-4-2.4-6.6-2.4-8.5-2.4-9.4-2.4-9.4-2.4-8.5-2.4-6.6-2.4-4.2-2.4-1.3-2.5 1.7-2.4 4.5-2.4 7-2.4 8.7-2.4 9.8-2.4 9.8-2.4 8.8-2.4 7-2.5 4.3-2.4 1.1-2.4-2.5-2.4-5.9-2.4-9.3-2.4-11.9-2.4-13.7-2.4-14.5-2.4-14.1-2.5-12.4-2.4-9.7-2.4-5.9-2.4-1.4-2.4 3.6-2.4 8.6-2.4 13.4-2.4 17.3z"/><path class="r" d="M35.3 -122.9l1.2-9.1 1.2-8.2 1.2-7.2 1.2-6.2 1.2-4.9 1.2-3.7 1.2-2.4 1.2-1.2 1.2 .1 1.2 1.3 1.2 2.4 1.2 3.5 1.2 4.4 1.2 5.3 1.2 5.9 1.3 6.5 1.2 6.9 1.2 7.2 1.2 7.3 1.2 7.2 1.2 7 1.2 6.7 1.2 6.2 1.2 5.7 1.2 5 1.2 4.3 1.2 3.4 1.2 2.5 1.2 1.7 1.2 .8 1.2-.1 1.2-1 1.3-1.8 1.2-2.5 1.2-3.2 1.2-3.8 1.2-4.3 1.2-4.5 1.2-4.9 1.2-4.9 1.2-4.9 1.2-4.9 1.2-4.5 1.2-4.2 1.2-3.8 1.2-3.2 1.2-2.6 1.2-1.9 1.2-1.2 1.3-.5 1.2 .3 1.2 1 1.2 1.8 1.2 2.4 1.2 3.1 1.2 3.5 1.2 4.1 1.2 4.4 1.2 4.6 1.2 4.8 1.2 4.7 1.2 4.7 1.2 4.4 1.2 4.1 1.2 3.6 1.2 3 1.2 2.3 1.3 1.7 1.2 .8 1.2-.1 1.2-.9 1.2-1.9 1.2-2.7 1.2-3.6 1.2-4.4 1.2-5.2 1.2-5.8 1.2-6.5 1.2-6.8 1.2-7.2 1.2-7.4 1.2-7.5 1.2-7.3 1.2-7.1 1.3-6.7 1.2-6.1 1.2-5.4 1.2-4.6 1.2-3.6 1.2-2.6 1.2-1.5 1.2-.2 1.2 .9 1.2 2.3 1.2 3.5 1.2 4.8 1.2 5.9 1.2 7 1.2 8.1 1.2 9"/><path class="c" d="M155.8 -131.5m0 0l.7-3m-1.9-6l.7-2m-1.9-6.1l.7-.9m-1.9-6.1l.7 .1m-1.9-6l.7 1m-1.9-5.8l.7 1.9m-1.9-5.4l.7 2.7m-1.9-5l.7 3.4m-1.9-4.3l.7 3.8m-1.9-3.6l.7 4.3m-1.9-2.8l.7 4.5m-1.9-1.9l.7 4.7m-1.9-1.1l.7 4.7m-1.9-.1l.7 4.7m-1.9 .7l.7 4.6m-1.9 1.5l.7 4.4m-2 2.3l.8 4.2m-2 2.9l.7 3.9m-1.9 3.4l.7 3.8m-1.9 3.7l.7 3.5m-1.9 3.9l.7 3.4m-1.9 3.8l.7 3.2m-1.9 3.6l.7 3.2m-1.9 3.3l.7 3.1m-1.9 2.7l.7 3.1m-1.9 2.1l.7 3m-1.9 1.4l.7 3m-1.9 .6l.7 2.9m-1.9-.2l.7 2.8m-1.9-.9l.7 2.6m-1.9-1.7l.7 2.4m-1.9-2.3l.7 2.1m-1.9-2.9l.7 1.8m-2-3.5l.8 1.5m-2-3.8l.7 1.1m-1.9-4.1l.7 .7m-1.9-4.3l.7 .3m-1.9-4.4l.7 0m-1.9-4.4l.7-.4m-1.9-4.3l.7-.6m-1.9-4.1l.7-.8m-1.9-4l.7-.8m-1.9-3.8l.7-.8m-1.9-3.6l.7-.7m-1.9-3.4l.7-.3m-1.9-3.2l.7 0m-1.9-3.1l.7 .5m-1.9-2.9l.7 1m-1.9-2.8l.7 1.7m-1.9-2.7l.7 2.3m-1.9-2.6l.7 2.9m-2-2.4l.8 3.5m-2-2.3l.7 4m-1.9-2.1l.7 4.4m-1.9-1.8l.7 4.8m-1.9-1.6l.7 4.9m-1.9-1.1l.7 4.9m-1.9-.7l.7 4.8m-1.9-.3l.7 4.6m-1.9 .3l.7 4m-1.9 .9l.7 3.5m-1.9 1.4l.7 2.9m-1.9 2l.7 2m-1.9 2.5l.7 1.3m-1.9 3l.7 .5m-1.9 3.3l.7-.4m-1.9 3.6l.7-1.1m-1.9 3.6l.7-1.8m-2 3.6l.8-2.4m-2 3.4l.7-2.9m-1.9 3l.7-3.2m-1.9 2.4l.7-3.3m-1.9 1.6l.7-3.4m-1.9 .9l.7-3.4m-1.9 0l.7-3.2m-1.9-1.1l.7-2.9m-1.9-2.1l.7-2.5m-1.9-3.2l.7-2m-1.9-4.2l.7-1.6m-1.9-5.1l.7-1.1m-1.9-5.9l.7-.6m-1.9-6.6l.7-.1m-1.9-7.2l.7 .4m-1.9-7.6l.7 .9m-1.9-7.8l.7 1.4m-2-7.9l.8 1.8m-2-7.7l.8 2.2m-2-7.5l.7 2.6m-1.9-7l.7 3m-1.9-6.5l.7 3.5m-1.9-5.9l.7 3.9m-1.9-5.2l.7 4.4m-1.9-4.5l.7 4.9m-1.9-3.7l.7 5.4m-1.9-3l.7 6m-1.9-2.3l.7 6.6m-1.9-1.7l.7 7.1m-1.9-.9l.7 7.6m-1.9-.4l.7 8.1m-1.9 .1l.7 8.5m-1.9 .6l.7 8.8"/><path class="s" d="M51.6 -151.5L50.9 -154.1M77 -71L76.3 -69.9M99.9 -123.1L99.2 -124.1M116.8 -68.9L116 -70.4M150.5 -164.4L149.8 -166.3"/></g>
<g transform="translate(311.1 211.5)"><path class="fgR" d="M36 -107l2.4-18.7 2.4-15.3 2.4-10.8 2.4-5.7 2.4-.6 2.4 4.2 2.5 8 2.4 10.8 2.4 12.3 2.4 12.5 2.4 11.7 2.4 10.1 2.4 7.9 2.4 5.5 2.5 2.9 2.4 .5 2.4-1.9 2.4-3.9 2.4-5.6 2.4-7 2.4-7.7 2.4-7.9 2.4-7.4 2.5-5.9 2.4-3.9 2.4-1.2 2.4 1.9 2.4 4.9 2.4 7.6 2.4 9.5 2.4 10.2 2.4 9.9 2.5 8.1 2.4 5.5 2.4 1.8 2.4-2.1 2.4-5.9 2.4-9.4 2.4-12.1 2.4-13.6 2.4-14.2 2.5-13.6 2.4-12 2.4-9.6 2.4-6.5 2.4-3 2.4 .9 2.4 5 2.4 9 2.5 13-.8 2.8-2.4-15-2.4-11-2.4-6.6-2.4-2.1-2.4 2.4-2.4 6.4-2.4 9.9-2.4 12.4-2.5 14-2.4 14.5-2.4 13.8-2.4 12.2-2.4 9.5-2.4 6.1-2.4 2.4-2.4-1.3-2.5-4.7-2.4-7.4-2.4-9.2-2.4-9.8-2.4-9.4-2.4-8-2.4-5.8-2.4-3-2.4-.1-2.5 2.8-2.4 5.3-2.4 7.1-2.4 8.4-2.4 8.7-2.4 8.3-2.4 7.3-2.4 5.4-2.4 3-2.5 .3-2.4-2.7-2.4-5.7-2.4-8.6-2.4-11-2.4-12.7-2.4-13.5-2.4-13.1-2.4-11.6-2.5-8.9-2.4-5-2.4-.4-2.4 4.7-2.4 9.7-2.4 14.4-2.4 18z"/><path class="r" d="M35.3 -115.6l1.2-9.4 1.2-8.6 1.2-7.7 1.2-6.7 1.2-5.4 1.2-4.3 1.2-3 1.2-1.7 1.2-.4 1.2 .8 1.2 2 1.2 3 1.2 4 1.3 4.9 1.2 5.5 1.2 6.1 1.2 6.4 1.2 6.7 1.2 6.8 1.2 6.7 1.2 6.5 1.2 6.2 1.2 5.8 1.2 5.2 1.2 4.6 1.2 4 1.2 3.2 1.2 2.5 1.2 1.8 1.2 .9 1.2 .2 1.3-.5 1.2-1.2 1.2-1.8 1.2-2.5 1.2-2.9 1.2-3.5 1.2-3.8 1.2-4 1.2-4.3 1.2-4.4 1.2-4.3 1.2-4.3 1.2-4.1 1.2-3.8 1.2-3.3 1.2-3 1.2-2.3 1.3-1.7 1.2-1.1 1.2-.3 1.2 .4 1.2 1.1 1.2 1.9 1.2 2.6 1.2 3.2 1.2 3.7 1.2 4.3 1.2 4.6 1.2 4.8 1.2 4.9 1.2 4.9 1.2 4.8 1.2 4.4 1.2 4 1.2 3.4 1.3 2.7 1.2 2 1.2 1.1 1.2 .2 1.2-.7 1.2-1.7 1.2-2.6 1.2-3.5 1.2-4.4 1.2-5.1 1.2-5.8 1.2-6.4 1.2-6.8 1.2-7 1.2-7.3 1.2-7.2 1.2-7.2 1.3-6.8 1.2-6.5 1.2-5.9 1.2-5.3 1.2-4.6 1.2-3.6 1.2-2.8 1.2-1.7 1.2-.7 1.2 .5 1.2 1.6 1.2 2.7 1.2 3.9 1.2 5 1.2 6 1.2 7 1.2 8"/><path class="c" d="M155.8 -136m0 0l.8-2.8m-2-5.2l.7-1.7m-1.9-5.3l.7-.8m-1.9-5.2l.7 .2m-1.9-5.2l.7 1.2m-1.9-5.1l.7 2.1m-1.9-4.8l.7 2.8m-1.9-4.4l.7 3.4m-1.9-3.9l.7 4m-1.9-3.3l.7 4.3m-1.9-2.6l.7 4.6m-1.9-1.8l.7 4.6m-1.9-1l.7 4.7m-1.9-.1l.7 4.6m-1.9 .7l.7 4.4m-1.9 1.5l.7 4.3m-1.9 2.2l.7 4m-2 2.8l.8 3.9m-2 3.3l.7 3.6m-1.9 3.6l.7 3.5m-1.9 3.8l.7 3.3m-1.9 3.7l.7 3.2m-1.9 3.6l.7 3.1m-1.9 3.3l.7 3m-1.9 2.8l.7 3m-1.9 2.1l.7 2.9m-1.9 1.5l.7 2.9m-1.9 .6l.7 2.8m-1.9-.2l.7 2.7m-1.9-1l.7 2.6m-1.9-1.9l.7 2.4m-1.9-2.6l.7 2.2m-1.9-3.3l.7 1.9m-1.9-3.9l.7 1.6m-2-4.3l.8 1.1m-2-4.5l.8 .7m-2-4.7l.7 .4m-1.9-4.8l.7 0m-1.9-4.8l.7-.3m-1.9-4.6l.7-.5m-1.9-4.4l.7-.7m-1.9-4.1l.7-.8m-1.9-3.8l.7-.8m-1.9-3.5l.7-.6m-1.9-3.1l.7-.4m-1.9-2.8l.7 0m-1.9-2.6l.7 .5m-1.9-2.4l.7 1.1m-1.9-2.2l.7 1.6m-1.9-2l.7 2.2m-1.9-1.9l.7 2.9m-1.9-1.8l.7 3.4m-2-1.7l.8 4m-2-1.7l.7 4.4m-1.9-1.4l.7 4.6m-1.9-1.3l.7 4.9m-1.9-1.1l.7 4.9m-1.9-.8l.7 4.7m-1.9-.4l.7 4.4m-1.9-.1l.7 4m-1.9 .4l.7 3.4m-1.9 .9l.7 2.7m-1.9 1.3l.7 2.1m-1.9 1.7l.7 1.3m-1.9 2.2l.7 .4m-1.9 2.5l.7-.3m-1.9 2.8l.7-1.1m-1.9 2.9l.7-1.7m-1.9 2.9l.7-2.2m-2 2.7l.8-2.7m-2 2.5l.8-3m-2 2.1l.7-3.2m-1.9 1.4l.7-3.2m-1.9 .7l.7-3.1m-1.9-.1l.7-3m-1.9-1l.7-2.7m-1.9-1.9l.7-2.3m-1.9-2.9l.7-1.9m-1.9-3.9l.7-1.4m-1.9-4.8l.7-.9m-1.9-5.6l.7-.4m-1.9-6.3l.7 .1m-1.9-6.9l.7 .6m-1.9-7.3l.7 1m-1.9-7.4l.7 1.4m-1.9-7.5l.7 1.9m-1.9-7.4l.7 2.2m-2-7.1l.8 2.7m-2-6.7l.7 3.1m-1.9-6.1l.7 3.5m-1.9-5.5l.7 3.9m-1.9-4.7l.7 4.4m-1.9-4l.7 4.9m-1.9-3.2l.7 5.4m-1.9-2.4l.7 5.9m-1.9-1.6l.7 6.3m-1.9-.9l.7 7m-1.9-.3l.7 7.4m-1.9 .3l.7 7.9m-1.9 .7l.7 8.3m-1.9 1.1l.7 8.6"/><path class="s" d="M51.7 -150.3L50.9 -153M77 -73.6L76.3 -72.5M99.9 -123.5L99.2 -124.6M116.8 -68.8L116.1 -70.4M150.5 -163.8L149.8 -165.9"/></g>
<path d="M345.7,87.1 346.4,81.3 347.2,75.9 347.9,70.7 348.7,66.0 349.4,61.7 350.2,57.9 350.9,54.5 351.7,51.5 352.4,49.1 353.2,47.1 354.0,45.6 354.7,44.7 355.5,44.2 356.2,44.2 357.0,44.7 357.7,45.6 358.5,47.0 359.2,48.8 360.0,51.0 360.7,53.6 361.5,56.5 362.2,59.8 363.0,63.3 363.7,67.1 364.5,71.1 365.3,75.3 366.0,79.6 366.8,84.1 367.5,88.6 368.3,93.1 369.0,97.7 369.8,102.2 370.5,106.6 371.3,110.9 372.0,115.1 372.8,119.1 373.5,122.9 374.3,126.4 375.1,129.8 375.8,132.8 376.6,135.6 377.3,138.0 378.1,140.1 378.8,141.9 379.6,143.3 380.3,144.4 381.1,145.1 381.8,145.5 382.6,145.5 383.3,145.2 384.1,144.5 384.8,143.6 385.6,142.3 386.4,140.7 387.1,138.9 387.9,136.9 388.6,134.6 389.4,132.1 390.1,129.4 390.9,126.6 391.6,123.7 392.4,120.7 393.1,117.6 393.9,114.5 394.6,111.4 395.4,108.3 396.2,105.3 396.9,102.4 397.7,99.6 398.4,97.0 399.2,94.5 399.9,92.2 400.7,90.1 401.4,88.3 402.2,86.7 402.9,85.3 403.7,84.3 404.4,83.5 405.2,83.0 405.9,82.8 406.7,82.9 407.5,83.3 408.2,84.0 409.0,84.9 409.7,86.1 410.5,87.6 411.2,89.4 412.0,91.4 412.7,93.5 413.5,95.9 414.2,98.4 415.0,101.1 415.7,103.9 416.5,106.8 417.3,109.8 418.0,112.8 418.8,115.7 419.5,118.7 420.3,121.6 421.0,124.4 421.8,127.1 422.5,129.7 423.3,132.1 424.0,134.3 424.8,136.2 425.5,137.9 426.3,139.4 427.1,140.5 427.8,141.4 428.6,141.9 429.3,142.1 430.1,142.0 430.8,141.5 431.6,140.7 432.3,139.5 433.1,138.0 433.8,136.1 434.6,133.9 435.3,131.3 436.1,128.5 436.8,125.3 437.6,121.9 438.4,118.2 439.1,114.3 439.9,110.2 440.6,105.9 441.4,101.5 442.1,97.0 442.9,92.4 443.6,87.7 444.4,83.1 445.1,78.4 445.9,73.9 446.6,69.5 447.4,65.2 448.2,61.0 448.9,57.2 449.7,53.5 450.4,50.1 451.2,47.1 451.9,44.4 452.7,42.1 453.4,40.2 454.2,38.7 454.9,37.6 455.7,37.0 456.4,36.9 457.2,37.3 457.9,38.2 458.7,39.5 459.5,41.4 460.2,43.7 461.0,46.5 461.7,49.8 462.5,53.6 463.2,57.8 464.0,62.4 464.7,67.4 465.5,72.8 466.2,78.5" fill="none" stroke="#ff0000" stroke-width="2.4" stroke-linecap="butt" stroke-linejoin="round"/>
<g transform="translate(311.8 213)"><path class="fgR" d="M36 -100.3l2.4-19.3 2.4-16.2 2.4-11.8 2.4-6.7 2.4-1.4 2.5 3.4 2.4 7.3 2.4 9.9 2.4 11.4 2.4 11.6 2.4 10.7 2.4 9.2 2.4 7.3 2.4 5.2 2.5 3.1 2.4 1.2 2.4-.7 2.4-2.4 2.4-4.1 2.4-5.7 2.4-6.7 2.4-7.5 2.5-7.5 2.4-6.7 2.4-4.9 2.4-2.3 2.4 .8 2.4 4.1 2.4 7.1 2.4 9.5 2.4 10.7 2.5 10.5 2.4 8.9 2.4 6 2.4 2.4 2.4-1.7 2.4-5.8 2.4-9.3 2.4-11.9 2.4-13.5 2.5-13.8 2.4-13.1 2.4-11.7 2.4-9.3 2.4-6.7 2.4-3.6 2.4-.2 2.4 3.4 2.4 7.2 2.5 11-.7 2.6-2.5-13-2.4-9-2.4-5-2.4-.9-2.4 3-2.4 6.5-2.4 9.6-2.4 12-2.5 13.6-2.4 14.2-2.4 13.6-2.4 12.1-2.4 9.4-2.4 5.9-2.4 2.1-2.4-1.8-2.4-5.5-2.5-8.1-2.4-9.9-2.4-10.2-2.4-9.5-2.4-7.6-2.4-4.9-2.4-1.9-2.4 1.2-2.4 3.9-2.5 5.9-2.4 7.4-2.4 7.9-2.4 7.7-2.4 7-2.4 5.6-2.4 3.9-2.4 1.9-2.4-.5-2.5-2.9-2.4-5.5-2.4-7.9-2.4-10.1-2.4-11.7-2.4-12.5-2.4-12.3-2.4-10.8-2.5-8-2.4-4.2-2.4 .6-2.4 5.7-2.4 10.8-2.4 15.3-2.4 18.7z"/><path class="r" d="M35.3 -108.5l1.2-9.7 1.2-9 1.2-8.2 1.2-7.1 1.2-6.1 1.2-4.7 1.2-3.5 1.2-2.2 1.2-.9 1.2 .3 1.2 1.6 1.2 2.6 1.3 3.6 1.2 4.4 1.2 5.2 1.2 5.6 1.2 6 1.2 6.3 1.2 6.3 1.2 6.2 1.2 6 1.2 5.7 1.2 5.3 1.2 4.8 1.2 4.2 1.2 3.7 1.2 3.1 1.2 2.4 1.2 1.8 1.3 1.1 1.2 .5 1.2 0 1.2-.7 1.2-1.2 1.2-1.7 1.2-2.2 1.2-2.6 1.2-3 1.2-3.4 1.2-3.6 1.2-3.8 1.2-3.9 1.2-4 1.2-3.9 1.2-3.8 1.2-3.6 1.2-3.2 1.3-2.7 1.2-2.3 1.2-1.6 1.2-1 1.2-.2 1.2 .6 1.2 1.3 1.2 2.1 1.2 2.8 1.2 3.5 1.2 4.1 1.2 4.6 1.2 4.9 1.2 5.1 1.2 5.1 1.2 5.1 1.2 4.8 1.3 4.3 1.2 3.8 1.2 3.2 1.2 2.3 1.2 1.4 1.2 .4 1.2-.5 1.2-1.6 1.2-2.5 1.2-3.4 1.2-4.4 1.2-5 1.2-5.8 1.2-6.3 1.2-6.7 1.2-6.9 1.2-7.1 1.2-7.1 1.3-6.9 1.2-6.7 1.2-6.2 1.2-5.8 1.2-5.1 1.2-4.5 1.2-3.7 1.2-2.8 1.2-2 1.2-1 1.2-.1 1.2 1 1.2 2 1.2 3 1.2 4 1.2 5 1.2 6.1 1.3 6.9"/><path class="c" d="M155.9 -140.3m0 0l.7-2.6m-2-4.3l.8-1.6m-2-4.5l.7-.6m-1.9-4.4l.7 .3m-1.9-4.3l.7 1.2m-1.9-4.2l.7 2.1m-1.9-4.1l.7 2.8m-1.9-3.8l.7 3.5m-1.9-3.4l.7 3.9m-1.9-2.9l.7 4.3m-1.9-2.3l.7 4.5m-1.9-1.7l.7 4.7m-1.9-1l.7 4.7m-1.9-.2l.7 4.5m-1.9 .6l.7 4.4m-1.9 1.4l.7 4.2m-1.9 2l.7 4.1m-1.9 2.6l.7 3.8m-2 3.1l.8 3.6m-2 3.5l.8 3.4m-2 3.7l.7 3.2m-1.9 3.7l.7 3.2m-1.9 3.5l.7 3.1m-1.9 3.2l.7 3m-1.9 2.8l.7 2.9m-1.9 2.1l.7 2.9m-1.9 1.5l.7 2.8m-1.9 .6l.7 2.8m-1.9-.3l.7 2.7m-1.9-1.1l.7 2.5m-1.9-2l.7 2.3m-1.9-2.7l.7 2m-1.9-3.4l.7 1.7m-1.9-4l.7 1.4m-1.9-4.6l.7 1.2m-1.9-5l.7 .8m-2-5.1l.8 .4m-2-5.2l.7 0m-1.9-5.1l.7-.2m-1.9-4.9l.7-.5m-1.9-4.6l.7-.7m-1.9-4.2l.7-.8m-1.9-3.8l.7-.7m-1.9-3.4l.7-.5m-1.9-3l.7-.2m-1.9-2.6l.7 .1m-1.9-2.2l.7 .6m-1.9-1.9l.7 1.1m-1.9-1.7l.7 1.7m-1.9-1.5l.7 2.3m-1.9-1.3l.7 2.8m-1.9-1.2l.7 3.4m-1.9-1.1l.7 3.8m-2-1.1l.8 4.3m-2-1.1l.8 4.6m-2-1l.7 4.7m-1.9-.9l.7 4.7m-1.9-.8l.7 4.6m-1.9-.6l.7 4.3m-1.9-.4l.7 3.9m-1.9-.1l.7 3.3m-1.9 .3l.7 2.7m-1.9 .7l.7 2m-1.9 1l.7 1.2m-1.9 1.4l.7 .5m-1.9 1.7l.7-.3m-1.9 2l.7-1m-1.9 2.2l.7-1.6m-1.9 2.3l.7-2.2m-1.9 2.2l.7-2.6m-1.9 2.1l.7-2.9m-2 1.8l.8-3.1m-2 1.3l.7-3.1m-1.9 .7l.7-3.1m-1.9 0l.7-2.8m-1.9-.9l.7-2.5m-1.9-1.7l.7-2.2m-1.9-2.6l.7-1.8m-1.9-3.5l.7-1.3m-1.9-4.4l.7-.8m-1.9-5.2l.7-.3m-1.9-5.9l.7 .1m-1.9-6.4l.7 .6m-1.9-6.9l.7 1.1m-1.9-7.1l.7 1.5m-1.9-7.1l.7 1.9m-1.9-7.1l.7 2.4m-1.9-6.8l.7 2.7m-2-6.3l.8 3.1m-2-5.7l.8 3.4m-2-5l.7 3.9m-1.9-4.2l.7 4.3m-1.9-3.4l.7 4.7m-1.9-2.5l.7 5.2m-1.9-1.7l.7 5.7m-1.9-1l.7 6.3m-1.9-.2l.7 6.7m-1.9 .4l.7 7.2m-1.9 1l.7 7.6m-1.9 1.4l.7 8m-1.9 1.7l.7 8.2"/><path class="s" d="M52.9 -145L52.2 -147.4M77 -76.1L76.3 -75.1M101.1 -123.1L100.4 -123.7M116.8 -68.9L116.1 -70.3M151.7 -161.1L151 -162.3M51 -151.8L52.2 -147.4M99.2 -125L100.4 -123.7M149.8 -165.3L151 -162.3"/></g>
<g transform="translate(312.5 214.5)"><path class="fgR" d="M36 -93.8l2.4-19.9 2.4-17 2.4-12.7 2.4-7.6 2.5-2.3 2.4 2.6 2.4 6.5 2.4 9.2 2.4 10.6 2.4 10.6 2.4 9.7 2.4 8.4 2.4 6.6 2.5 4.9 2.4 3.4 2.4 1.8 2.4 .5 2.4-1.1 2.4-2.6 2.4-4.3 2.4-5.9 2.4-7.1 2.5-7.6 2.4-7.3 2.4-5.9 2.4-3.4 2.4-.3 2.4 3.3 2.4 6.8 2.4 9.4 2.5 11.1 2.4 11 2.4 9.6 2.4 6.8 2.4 2.8 2.4-1.4 2.4-5.6 2.4-9.2 2.4-11.8 2.5-13.2 2.4-13.4 2.4-12.8 2.4-11.2 2.4-9.1 2.4-6.8 2.4-4.2 2.4-1.2 2.4 1.9 2.5 5.4 2.4 9.1-.7 2.3-2.5-11-2.4-7.2-2.4-3.4-2.4 .2-2.4 3.6-2.4 6.7-2.4 9.3-2.4 11.7-2.4 13.1-2.5 13.8-2.4 13.5-2.4 11.9-2.4 9.3-2.4 5.8-2.4 1.7-2.4-2.4-2.4-6-2.4-8.9-2.5-10.5-2.4-10.7-2.4-9.5-2.4-7.1-2.4-4.1-2.4-.8-2.4 2.3-2.4 4.9-2.4 6.7-2.5 7.5-2.4 7.5-2.4 6.7-2.4 5.7-2.4 4.1-2.4 2.4-2.4 .7-2.4-1.2-2.5-3.1-2.4-5.2-2.4-7.3-2.4-9.2-2.4-10.7-2.4-11.6-2.4-11.4-2.4-9.9-2.4-7.3-2.5-3.4-2.4 1.4-2.4 6.7-2.4 11.8-2.4 16.2-2.4 19.3z"/><path class="r" d="M35.3 -101.8l1.2-9.9 1.2-9.4 1.2-8.6 1.2-7.6 1.2-6.5 1.2-5.3 1.2-4 1.2-2.7 1.2-1.3 1.2-.1 1.3 1.1 1.2 2.3 1.2 3.2 1.2 4.1 1.2 4.7 1.2 5.2 1.2 5.6 1.2 5.8 1.2 5.8 1.2 5.8 1.2 5.5 1.2 5.2 1.2 4.8 1.2 4.4 1.2 3.9 1.2 3.4 1.2 2.8 1.2 2.4 1.3 1.8 1.2 1.3 1.2 .8 1.2 .4 1.2-.1 1.2-.6 1.2-1 1.2-1.4 1.2-1.9 1.2-2.2 1.2-2.7 1.2-3 1.2-3.2 1.2-3.5 1.2-3.7 1.2-3.8 1.2-3.8 1.3-3.7 1.2-3.5 1.2-3.2 1.2-2.7 1.2-2.2 1.2-1.5 1.2-.8 1.2 0 1.2 .8 1.2 1.6 1.2 2.5 1.2 3.2 1.2 3.9 1.2 4.5 1.2 5 1.2 5.3 1.2 5.4 1.2 5.3 1.3 5.2 1.2 4.7 1.2 4.2 1.2 3.4 1.2 2.6 1.2 1.7 1.2 .7 1.2-.3 1.2-1.4 1.2-2.4 1.2-3.4 1.2-4.3 1.2-5 1.2-5.7 1.2-6.2 1.2-6.6 1.2-6.9 1.3-6.9 1.2-6.9 1.2-6.7 1.2-6.4 1.2-6.1 1.2-5.6 1.2-5 1.2-4.3 1.2-3.7 1.2-3 1.2-2.2 1.2-1.4 1.2-.5 1.2 .3 1.2 1.3 1.2 2.1 1.2 3.1 1.2 4.1 1.3 5.1 1.2 5.9"/><path class="c" d="M155.9 -144.4m0 0l.7-2.3m-1.9-3.6l.7-1.5m-2-3.6l.8-.4m-2-3.7l.8 .5m-2-3.6l.7 1.4m-1.9-3.5l.7 2.1m-1.9-3.4l.7 2.9m-1.9-3.2l.7 3.4m-1.9-2.9l.7 3.9m-1.9-2.5l.7 4.3m-1.9-2.1l.7 4.5m-1.9-1.5l.7 4.5m-1.9-.8l.7 4.6m-1.9-.3l.7 4.6m-1.9 .4l.7 4.4m-1.9 1.2l.7 4.2m-1.9 1.9l.7 3.9m-1.9 2.5l.7 3.8m-1.9 2.9l.7 3.6m-1.9 3.3l.7 3.4m-2 3.5l.8 3.2m-2 3.7l.7 3m-1.9 3.6l.7 2.9m-1.9 3.3l.7 2.9m-1.9 2.8l.7 2.8m-1.9 2.2l.7 2.8m-1.9 1.5l.7 2.7m-1.9 .7l.7 2.6m-1.9-.2l.7 2.5m-1.9-1.1l.7 2.4m-1.9-2.1l.7 2.2m-1.9-2.9l.7 2m-1.9-3.7l.7 1.8m-1.9-4.4l.7 1.4m-1.9-4.8l.7 1m-1.9-5.2l.7 .7m-1.9-5.4l.7 .3m-2-5.5l.8 .1m-2-5.4l.8-.2m-2-5.2l.7-.5m-1.9-4.8l.7-.6m-1.9-4.4l.7-.6m-1.9-3.9l.7-.5m-1.9-3.4l.7-.4m-1.9-2.8l.7-.2m-1.9-2.3l.7 .2m-1.9-1.8l.7 .6m-1.9-1.4l.7 1.1m-1.9-1.1l.7 1.7m-1.9-.9l.7 2.2m-1.9-.7l.7 2.8m-1.9-.6l.7 3.3m-1.9-.6l.7 3.8m-1.9-.6l.7 4.2m-1.9-.7l.7 4.4m-2-.7l.8 4.5m-2-.7l.7 4.5m-1.9-.7l.7 4.4m-1.9-.7l.7 4.1m-1.9-.6l.7 3.7m-1.9-.5l.7 3.3m-1.9-.3l.7 2.6m-1.9 .1l.7 1.9m-1.9 .3l.7 1.2m-1.9 .7l.7 .4m-1.9 1l.7-.3m-1.9 1.3l.7-.9m-1.9 1.5l.7-1.6m-1.9 1.7l.7-2.1m-1.9 1.7l.7-2.4m-1.9 1.6l.7-2.7m-1.9 1.4l.7-2.9m-2 1.1l.8-3m-2 .6l.7-2.8m-1.9 0l.7-2.7m-1.9-.7l.7-2.4m-1.9-1.5l.7-2m-1.9-2.4l.7-1.6m-1.9-3.2l.7-1.2m-1.9-4l.7-.7m-1.9-4.8l.7-.2m-1.9-5.6l.7 .3m-1.9-6.1l.7 .8m-1.9-6.6l.7 1.2m-1.9-6.8l.7 1.6m-1.9-6.8l.7 2m-1.9-6.7l.7 2.3m-1.9-6.4l.7 2.7m-1.9-5.9l.7 3.1m-1.9-5.4l.7 3.5m-2-4.6l.8 3.9m-2-3.8l.7 4.3m-1.9-3l.7 4.8m-1.9-2.1l.7 5.2m-1.9-1.2l.7 5.7m-1.9-.4l.7 6.1m-1.9 .4l.7 6.6m-1.9 1l.7 7.1m-1.9 1.5l.7 7.4m-1.9 2l.7 7.7m-1.9 2.2l.7 8"/><path class="s" d="M52.9 -144.2L52.2 -146.5M78.2 -78.9L77.5 -78.6M101.1 -124L100.4 -124.6M118 -66L117.3 -67.8M151.7 -161.2L151 -162.6M76.3 -77.6L77.5 -78.6M116.1 -70.4L117.3 -67.8"/></g>
<g transform="translate(313.2 216)"><path class="fgR" d="M36 -87.6l2.4-20.4 2.4-17.7 2.4-13.7 2.4-8.4 2.5-3.1 2.4 1.8 2.4 5.8 2.4 8.5 2.4 9.7 2.4 9.7 2.4 8.8 2.4 7.5 2.5 6 2.4 4.7 2.4 3.5 2.4 2.5 2.4 1.5 2.4 .3 2.4-1.2 2.4-3.1 2.4-5 2.5-6.7 2.4-7.7 2.4-7.9 2.4-6.8 2.4-4.6 2.4-1.2 2.4 2.5 2.4 6.4 2.4 9.5 2.5 11.3 2.4 11.6 2.4 10.3 2.4 7.3 2.4 3.4 2.4-1.2 2.4-5.4 2.4-9 2.5-11.6 2.4-13 2.4-13.1 2.4-12.3 2.4-10.8 2.4-9 2.4-6.9 2.4-4.7 2.4-2.3 2.5 .5 2.4 3.6 2.4 7.3-.7 2.2-2.4-9.1-2.5-5.4-2.4-1.9-2.4 1.2-2.4 4.2-2.4 6.8-2.4 9.1-2.4 11.2-2.4 12.8-2.4 13.4-2.5 13.2-2.4 11.8-2.4 9.2-2.4 5.6-2.4 1.4-2.4-2.8-2.4-6.8-2.4-9.6-2.4-11-2.5-11.1-2.4-9.4-2.4-6.8-2.4-3.3-2.4 .3-2.4 3.4-2.4 5.9-2.4 7.3-2.5 7.6-2.4 7.1-2.4 5.9-2.4 4.3-2.4 2.6-2.4 1.1-2.4-.5-2.4-1.8-2.4-3.4-2.5-4.9-2.4-6.6-2.4-8.4-2.4-9.7-2.4-10.6-2.4-10.6-2.4-9.2-2.4-6.5-2.4-2.6-2.5 2.3-2.4 7.6-2.4 12.7-2.4 17-2.4 19.9z"/><path class="r" d="M35.3 -95.3l1.2-10.2 1.2-9.7 1.2-8.9 1.2-8.1 1.2-7 1.2-5.7 1.2-4.5 1.2-3.1 1.2-1.8 1.3-.5 1.2 .7 1.2 1.9 1.2 2.8 1.2 3.7 1.2 4.4 1.2 4.8 1.2 5.2 1.2 5.4 1.2 5.3 1.2 5.3 1.2 5 1.2 4.7 1.2 4.4 1.2 4 1.2 3.5 1.2 3.1 1.2 2.7 1.3 2.2 1.2 1.9 1.2 1.5 1.2 1.1 1.2 .7 1.2 .4 1.2 .1 1.2-.4 1.2-.7 1.2-1.1 1.2-1.5 1.2-2 1.2-2.3 1.2-2.8 1.2-3.1 1.2-3.4 1.2-3.7 1.3-3.8 1.2-3.8 1.2-3.7 1.2-3.6 1.2-3.2 1.2-2.7 1.2-2.1 1.2-1.3 1.2-.6 1.2 .3 1.2 1.2 1.2 2.1 1.2 3 1.2 3.8 1.2 4.4 1.2 5 1.2 5.4 1.3 5.7 1.2 5.6 1.2 5.4 1.2 5.1 1.2 4.5 1.2 3.8 1.2 3 1.2 1.9 1.2 .9 1.2-.1 1.2-1.3 1.2-2.3 1.2-3.3 1.2-4.2 1.2-5 1.2-5.6 1.2-6.2 1.2-6.5 1.3-6.7 1.2-6.7 1.2-6.7 1.2-6.5 1.2-6.3 1.2-5.8 1.2-5.4 1.2-4.8 1.2-4.3 1.2-3.8 1.2-3 1.2-2.4 1.2-1.8 1.2-1 1.2-.2 1.2 .5 1.2 1.4 1.3 2.2 1.2 3.2 1.2 4 1.2 5.1"/><path class="c" d="M155.9 -148.2m0 0l.7-2.2m-1.9-2.9l.7-1.2m-1.9-2.8l.7-.4m-1.9-2.8l.7 .6m-2-2.8l.8 1.4m-2-2.8l.7 2.2m-1.9-2.7l.7 2.8m-1.9-2.6l.7 3.5m-1.9-2.5l.7 3.9m-1.9-2.1l.7 4.2m-1.9-1.8l.7 4.4m-1.9-1.4l.7 4.6m-1.9-.8l.7 4.5m-1.9-.2l.7 4.5m-1.9 .3l.7 4.4m-1.9 1l.7 4.2m-1.9 1.6l.7 4m-1.9 2.3l.7 3.7m-1.9 2.8l.7 3.5m-1.9 3.2l.7 3.3m-1.9 3.4l.7 3.2m-2 3.5l.8 3.1m-2 3.4l.8 3m-2 3.2l.7 2.8m-1.9 2.8l.7 2.8m-1.9 2.2l.7 2.7m-1.9 1.5l.7 2.6m-1.9 .7l.7 2.5m-1.9-.2l.7 2.4m-1.9-1.1l.7 2.3m-1.9-2.2l.7 2.2m-1.9-3.1l.7 1.9m-1.9-3.8l.7 1.6m-1.9-4.6l.7 1.4m-1.9-5.2l.7 1.1m-1.9-5.6l.7 .7m-1.9-5.8l.7 .4m-1.9-5.8l.7 .1m-1.9-5.7l.7-.2m-2-5.5l.8-.3m-2-5.1l.7-.4m-1.9-4.6l.7-.5m-1.9-3.9l.7-.5m-1.9-3.3l.7-.3m-1.9-2.7l.7-.1m-1.9-2l.7 .3m-1.9-1.5l.7 .7m-1.9-1l.7 1.2m-1.9-.6l.7 1.6m-1.9-.3l.7 2.3m-1.9-.2l.7 2.8m-1.9-.1l.7 3.3m-1.9-.1l.7 3.7m-1.9-.1l.7 4m-1.9-.3l.7 4.3m-1.9-.5l.7 4.4m-2-.6l.8 4.4m-2-.7l.7 4.3m-1.9-.9l.7 4m-1.9-.9l.7 3.6m-1.9-.8l.7 3.1m-1.9-.8l.7 2.6m-1.9-.6l.7 1.9m-1.9-.4l.7 1.2m-1.9-.1l.7 .5m-1.9 .2l.7-.2m-1.9 .6l.7-.9m-1.9 .8l.7-1.4m-1.9 1l.7-1.9m-1.9 1.2l.7-2.3m-1.9 1.2l.7-2.6m-1.9 1.1l.7-2.7m-1.9 .8l.7-2.7m-2 .5l.8-2.7m-2 0l.8-2.5m-2-.6l.7-2.2m-1.9-1.3l.7-1.9m-1.9-2.1l.7-1.5m-1.9-2.9l.7-1m-1.9-3.7l.7-.6m-1.9-4.4l.7-.1m-1.9-5.2l.7 .4m-1.9-5.7l.7 .8m-1.9-6.2l.7 1.3m-1.9-6.5l.7 1.7m-1.9-6.5l.7 2m-1.9-6.4l.7 2.4m-1.9-6.1l.7 2.8m-1.9-5.6l.7 3.1m-1.9-5l.7 3.5m-1.9-4.2l.7 3.9m-2-3.4l.8 4.3m-2-2.5l.7 4.7m-1.9-1.6l.7 5.1m-1.9-.6l.7 5.5m-1.9 .2l.7 6.1m-1.9 .9l.7 6.5m-1.9 1.6l.7 6.8m-1.9 2.1l.7 7.2m-1.9 2.5l.7 7.5m-1.9 2.7l.7 7.7"/><path class="s" d="M52.9 -143.3L52.2 -145.7M78.2 -80.6L77.5 -80.4M101.1 -124.8L100.4 -125.5M118 -65.9L117.3 -67.5M151.8 -161.3L151 -162.7"/></g>
<g transform="translate(313.9 217.5)"><path class="fgR" d="M36 -81.7l2.4-20.7 2.4-18.5 2.4-14.4 2.5-9.3 2.4-3.9 2.4 1.1 2.4 5.1 2.4 7.7 2.4 8.8 2.4 8.8 2.4 8 2.4 6.6 2.5 5.5 2.4 4.4 2.4 3.7 2.4 3.2 2.4 2.5 2.4 1.5 2.4 .1 2.4-1.9 2.5-4.2 2.4-6.2 2.4-7.9 2.4-8.4 2.4-7.7 2.4-5.5 2.4-2.2 2.4 1.8 2.4 6 2.5 9.4 2.4 11.6 2.4 12.1 2.4 10.8 2.4 7.9 2.4 3.8 2.4-.7 2.4-5.2 2.4-8.9 2.5-11.4 2.4-12.7 2.4-12.7 2.4-11.9 2.4-10.5 2.4-8.8 2.4-7 2.4-5.2 2.5-3.3 2.4-1 2.4 2 2.4 5.5-.7 2-2.4-7.3-2.4-3.6-2.5-.5-2.4 2.3-2.4 4.7-2.4 6.9-2.4 9-2.4 10.8-2.4 12.3-2.4 13.1-2.4 13-2.5 11.6-2.4 9-2.4 5.4-2.4 1.2-2.4-3.4-2.4-7.3-2.4-10.3-2.4-11.6-2.5-11.3-2.4-9.5-2.4-6.4-2.4-2.5-2.4 1.2-2.4 4.6-2.4 6.8-2.4 7.9-2.4 7.7-2.5 6.7-2.4 5-2.4 3.1-2.4 1.2-2.4-.3-2.4-1.5-2.4-2.5-2.4-3.5-2.4-4.7-2.5-6-2.4-7.5-2.4-8.8-2.4-9.7-2.4-9.7-2.4-8.5-2.4-5.8-2.4-1.8-2.5 3.1-2.4 8.4-2.4 13.7-2.4 17.7-2.4 20.4z"/><path class="r" d="M35.3 -89.1l1.2-10.4 1.2-10 1.2-9.3 1.2-8.4 1.2-7.4 1.2-6.3 1.2-4.9 1.2-3.5 1.3-2.2 1.2-.9 1.2 .3 1.2 1.5 1.2 2.5 1.2 3.3 1.2 4 1.2 4.5 1.2 4.8 1.2 4.9 1.2 4.9 1.2 4.8 1.2 4.5 1.2 4.3 1.2 3.9 1.2 3.6 1.2 3.2 1.3 2.8 1.2 2.5 1.2 2.2 1.2 1.9 1.2 1.6 1.2 1.4 1.2 1.1 1.2 .9 1.2 .6 1.2 .3 1.2 0 1.2-.4 1.2-.8 1.2-1.3 1.2-1.8 1.2-2.3 1.2-2.7 1.2-3.1 1.3-3.6 1.2-3.8 1.2-3.9 1.2-4 1.2-3.9 1.2-3.6 1.2-3.2 1.2-2.6 1.2-2 1.2-1 1.2-.2 1.2 .8 1.2 1.7 1.2 2.8 1.2 3.6 1.2 4.4 1.2 5.1 1.3 5.5 1.2 5.8 1.2 5.9 1.2 5.7 1.2 5.4 1.2 4.9 1.2 4.1 1.2 3.2 1.2 2.2 1.2 1.2 1.2 0 1.2-1.2 1.2-2.2 1.2-3.2 1.2-4.1 1.2-4.9 1.2-5.6 1.3-6 1.2-6.4 1.2-6.6 1.2-6.6 1.2-6.5 1.2-6.3 1.2-6 1.2-5.6 1.2-5.2 1.2-4.7 1.2-4.3 1.2-3.7 1.2-3.2 1.2-2.6 1.2-2.1 1.2-1.4 1.2-.9 1.2-.1 1.3 .6 1.2 1.4 1.2 2.2 1.2 3.2 1.2 4.1"/><path class="c" d="M155.9 -151.9m0 0l.7-2m-1.9-2.1l.7-1.1m-1.9-2.1l.7-.2m-1.9-2l.7 .6m-1.9-2l.7 1.4m-2-2l.8 2.2m-2-2.1l.8 2.9m-2-2l.7 3.4m-1.9-2l.7 3.9m-1.9-1.8l.7 4.2m-1.9-1.6l.7 4.4m-1.9-1.2l.7 4.5m-1.9-.8l.7 4.5m-1.9-.2l.7 4.4m-1.9 .3l.7 4.3m-1.9 .9l.7 4.2m-1.9 1.4l.7 4m-1.9 2l.7 3.8m-1.9 2.5l.7 3.6m-1.9 2.9l.7 3.4m-1.9 3.2l.7 3.2m-1.9 3.4l.7 3m-1.9 3.4l.7 2.9m-2 3.1l.8 2.8m-2 2.8l.7 2.7m-1.9 2.2l.7 2.6m-1.9 1.5l.7 2.6m-1.9 .6l.7 2.5m-1.9-.3l.7 2.4m-1.9-1.2l.7 2.1m-1.9-2.1l.7 1.9m-1.9-3.1l.7 1.8m-1.9-4l.7 1.5m-1.9-4.7l.7 1.2m-1.9-5.3l.7 .9m-1.9-5.8l.7 .7m-1.9-6.1l.7 .4m-1.9-6.1l.7 .1m-1.9-6l.7-.1m-1.9-5.7l.7-.3m-2-5.2l.8-.4m-2-4.7l.7-.4m-1.9-4l.7-.3m-1.9-3.3l.7-.2m-1.9-2.6l.7 .1m-1.9-1.8l.7 .4m-1.9-1.2l.7 .8m-1.9-.6l.7 1.2m-1.9-.2l.7 1.8m-1.9 .2l.7 2.2m-1.9 .4l.7 2.7m-1.9 .5l.7 3.2m-1.9 .4l.7 3.6m-1.9 .3l.7 3.9m-1.9 .1l.7 4.1m-1.9-.2l.7 4.3m-1.9-.5l.7 4.3m-2-.7l.8 4m-2-.9l.8 3.8m-2-1.1l.7 3.5m-1.9-1.2l.7 3m-1.9-1.2l.7 2.4m-1.9-1.1l.7 1.8m-1.9-1l.7 1.2m-1.9-.8l.7 .5m-1.9-.5l.7-.1m-1.9-.2l.7-.7m-1.9 .1l.7-1.3m-1.9 .4l.7-1.7m-1.9 .6l.7-2.1m-1.9 .7l.7-2.4m-1.9 .8l.7-2.6m-1.9 .7l.7-2.6m-1.9 .4l.7-2.5m-1.9 0l.7-2.3m-2-.5l.8-2.1m-2-1.1l.7-1.8m-1.9-1.8l.7-1.3m-1.9-2.6l.7-.9m-1.9-3.4l.7-.5m-1.9-4l.7-.1m-1.9-4.7l.7 .4m-1.9-5.3l.7 .8m-1.9-5.7l.7 1.2m-1.9-6l.7 1.7m-1.9-6.2l.7 2.1m-1.9-6.1l.7 2.5m-1.9-5.8l.7 2.9m-1.9-5.4l.7 3.2m-1.9-4.7l.7 3.6m-1.9-3.9l.7 3.9m-1.9-3l.7 4.3m-2-2.1l.8 4.7m-2-1.2l.8 5.2m-2-.3l.7 5.6m-1.9 .7l.7 5.9m-1.9 1.5l.7 6.3m-1.9 2.1l.7 6.7m-1.9 2.6l.7 7.1m-1.9 2.9l.7 7.3m-1.9 3.1l.7 7.4"/><path class="s" d="M54.1 -138.7L53.4 -140.8M78.2 -82.2L77.5 -82.1M102.3 -125.1L101.6 -125.5M118 -65.9L117.3 -67.4M153 -160.8L152.3 -161.4M52.2 -144.8L53.4 -140.8M100.4 -126.3L101.6 -125.5M151.1 -162.8L152.3 -161.4"/></g>
<g transform="translate(314.6 219)"><path class="fgR" d="M36 -76.1l2.4-21 2.4-19 2.5-15.2 2.4-10.1 2.4-4.6 2.4 .4 2.4 4.3 2.4 6.9 2.4 8 2.4 7.9 2.4 7.1 2.5 5.9 2.4 4.9 2.4 4.3 2.4 3.9 2.4 3.7 2.4 3.4 2.4 2.7 2.4 1.3 2.4-.8 2.5-3.3 2.4-5.9 2.4-7.9 2.4-9 2.4-8.4 2.4-6.4 2.4-3.1 2.4 1.1 2.5 5.6 2.4 9.3 2.4 11.8 2.4 12.6 2.4 11.3 2.4 8.4 2.4 4.3 2.4-.5 2.4-4.9 2.5-8.7 2.4-11.1 2.4-12.4 2.4-12.4 2.4-11.4 2.4-10.2 2.4-8.6 2.4-7.2 2.4-5.7 2.5-4.3 2.4-2.3 2.4 .4 2.4 3.9-.7 1.7-2.4-5.5-2.4-2-2.4 1-2.5 3.3-2.4 5.2-2.4 7-2.4 8.8-2.4 10.5-2.4 11.9-2.4 12.7-2.4 12.7-2.5 11.4-2.4 8.9-2.4 5.2-2.4 .7-2.4-3.8-2.4-7.9-2.4-10.8-2.4-12.1-2.4-11.6-2.5-9.4-2.4-6-2.4-1.8-2.4 2.2-2.4 5.5-2.4 7.7-2.4 8.4-2.4 7.9-2.4 6.2-2.5 4.2-2.4 1.9-2.4-.1-2.4-1.5-2.4-2.5-2.4-3.2-2.4-3.7-2.4-4.4-2.5-5.5-2.4-6.6-2.4-8-2.4-8.8-2.4-8.8-2.4-7.7-2.4-5.1-2.4-1.1-2.4 3.9-2.5 9.3-2.4 14.4-2.4 18.5-2.4 20.7z"/><path class="r" d="M35.3 -83.2l1.2-10.5 1.2-10.2 1.2-9.7 1.2-8.8 1.2-7.8 1.2-6.6 1.3-5.3 1.2-4 1.2-2.6 1.2-1.3 1.2 0 1.2 1.1 1.2 2.2 1.2 2.9 1.2 3.6 1.2 4.1 1.2 4.3 1.2 4.5 1.2 4.5 1.2 4.3 1.2 4.1 1.2 3.9 1.2 3.5 1.2 3.1 1.3 2.9 1.2 2.6 1.2 2.3 1.2 2.1 1.2 1.9 1.2 1.8 1.2 1.7 1.2 1.5 1.2 1.3 1.2 1.2 1.2 .9 1.2 .6 1.2 .3 1.2-.2 1.2-.7 1.2-1.2 1.2-1.8 1.3-2.4 1.2-2.9 1.2-3.3 1.2-3.8 1.2-4.1 1.2-4.2 1.2-4.2 1.2-4 1.2-3.7 1.2-3.1 1.2-2.4 1.2-1.6 1.2-.6 1.2 .4 1.2 1.4 1.2 2.5 1.2 3.5 1.2 4.3 1.3 5.1 1.2 5.6 1.2 6 1.2 6.1 1.2 6 1.2 5.7 1.2 5.1 1.2 4.4 1.2 3.5 1.2 2.5 1.2 1.3 1.2 .2 1.2-.9 1.2-2.1 1.2-3.1 1.2-4.1 1.2-4.8 1.3-5.5 1.2-5.9 1.2-6.3 1.2-6.4 1.2-6.4 1.2-6.3 1.2-6.1 1.2-5.8 1.2-5.4 1.2-5.1 1.2-4.6 1.2-4.2 1.2-3.7 1.2-3.3 1.2-2.8 1.2-2.4 1.2-1.9 1.3-1.4 1.2-.8 1.2-.2 1.2 .6 1.2 1.4 1.2 2.3 1.2 3.2"/><path class="c" d="M155.9 -155.4m0 0l.7-1.7m-1.9-1.5l.7-1m-1.9-1.3l.7-.1m-1.9-1.3l.7 .7m-1.9-1.3l.7 1.5m-1.9-1.3l.7 2.2m-1.9-1.4l.7 2.8m-2-1.4l.8 3.3m-2-1.4l.7 3.8m-1.9-1.4l.7 4.1m-1.9-1.3l.7 4.3m-1.9-1l.7 4.5m-1.9-.8l.7 4.5m-1.9-.3l.7 4.4m-1.9 .2l.7 4.3m-1.9 .8l.7 4.1m-1.9 1.3l.7 4m-1.9 1.8l.7 3.8m-1.9 2.3l.7 3.5m-1.9 2.8l.7 3.4m-1.9 3l.7 3.2m-1.9 3.2l.7 3m-1.9 3.3l.7 2.9m-1.9 3l.7 2.8m-2 2.7l.8 2.6m-2 2.2l.7 2.5m-1.9 1.6l.7 2.4m-1.9 .7l.7 2.3m-1.9-.2l.7 2.1m-1.9-1.2l.7 2m-1.9-2.2l.7 1.9m-1.9-3.2l.7 1.6m-1.9-4.1l.7 1.4m-1.9-4.9l.7 1.2m-1.9-5.6l.7 .9m-1.9-6l.7 .6m-1.9-6.3l.7 .4m-1.9-6.4l.7 .1m-1.9-6.2l.7-.1m-1.9-5.9l.7-.2m-1.9-5.4l.7-.3m-2-4.8l.8-.3m-2-4l.8-.2m-2-3.3l.7 0m-1.9-2.5l.7 .2m-1.9-1.6l.7 .5m-1.9-.9l.7 .9m-1.9-.3l.7 1.3m-1.9 .3l.7 1.8m-1.9 .6l.7 2.2m-1.9 .9l.7 2.7m-1.9 1l.7 3.1m-1.9 .9l.7 3.4m-1.9 .8l.7 3.7m-1.9 .5l.7 4m-1.9 .1l.7 4m-1.9-.2l.7 4m-1.9-.7l.7 3.9m-1.9-1l.7 3.7m-2-1.3l.8 3.3m-2-1.5l.7 2.8m-1.9-1.6l.7 2.3m-1.9-1.6l.7 1.7m-1.9-1.5l.7 1.1m-1.9-1.4l.7 .5m-1.9-1.1l.7-.1m-1.9-.8l.7-.7m-1.9-.5l.7-1.1m-1.9-.2l.7-1.6m-1.9 .1l.7-2m-1.9 .3l.7-2.1m-1.9 .3l.7-2.3m-1.9 .4l.7-2.3m-1.9 .2l.7-2.3m-1.9 0l.7-2.2m-1.9-.4l.7-1.9m-2-1l.8-1.6m-2-1.5l.8-1.3m-2-2.2l.7-.9m-1.9-3l.7-.4m-1.9-3.7l.7 0m-1.9-4.3l.7 .4m-1.9-4.9l.7 .9m-1.9-5.4l.7 1.3m-1.9-5.6l.7 1.7m-1.9-5.8l.7 2.1m-1.9-5.7l.7 2.5m-1.9-5.4l.7 2.8m-1.9-5l.7 3.3m-1.9-4.4l.7 3.6m-1.9-3.6l.7 4m-1.9-2.7l.7 4.3m-1.9-1.7l.7 4.7m-1.9-.7l.7 5.1m-2 .2l.8 5.5m-2 1.1l.7 5.9m-1.9 1.9l.7 6.3m-1.9 2.5l.7 6.6m-1.9 3.1l.7 6.8m-1.9 3.4l.7 7m-1.9 3.5l.7 7.1"/><path class="s" d="M54.1 -138.1L53.4 -140.2M79.4 -82.6L78.7 -83.1M102.3 -126.1L101.6 -126.6M119.2 -63.3L118.5 -64.9M153 -161.6L152.3 -162.3M77.5 -83.7L78.7 -83.1M117.3 -67.4L118.5 -64.9"/></g>
<g transform="translate(315.3 220.5)"><path class="fgR" d="M36 -70.7l2.4-21.3 2.4-19.5 2.5-15.8 2.4-10.8 2.4-5.4 2.4-.4 2.4 3.6 2.4 6.1 2.4 7.2 2.4 7.1 2.5 6.2 2.4 5.2 2.4 4.5 2.4 4 2.4 4.1 2.4 4.3 2.4 4.3 2.4 3.8 2.4 2.4 2.5 .2 2.4-2.6 2.4-5.5 2.4-8 2.4-9.3 2.4-9.2 2.4-7.2 2.4-3.9 2.4 .5 2.5 5.2 2.4 9.2 2.4 12 2.4 12.8 2.4 11.8 2.4 8.9 2.4 4.6 2.4-.1 2.5-4.6 2.4-8.4 2.4-10.9 2.4-12 2.4-11.9 2.4-11.1 2.4-9.8 2.4-8.6 2.4-7.3 2.5-6.3 2.4-5.2 2.4-3.6 2.4-1.1 2.4 2.3-.7 1.6-2.4-3.9-2.4-.4-2.4 2.3-2.5 4.3-2.4 5.7-2.4 7.2-2.4 8.6-2.4 10.2-2.4 11.4-2.4 12.4-2.4 12.4-2.4 11.1-2.5 8.7-2.4 4.9-2.4 .5-2.4-4.3-2.4-8.4-2.4-11.3-2.4-12.6-2.4-11.8-2.4-9.3-2.5-5.6-2.4-1.1-2.4 3.1-2.4 6.4-2.4 8.4-2.4 9-2.4 7.9-2.4 5.9-2.5 3.3-2.4 .8-2.4-1.3-2.4-2.7-2.4-3.4-2.4-3.7-2.4-3.9-2.4-4.3-2.4-4.9-2.5-5.9-2.4-7.1-2.4-7.9-2.4-8-2.4-6.9-2.4-4.3-2.4-.4-2.4 4.6-2.4 10.1-2.5 15.2-2.4 19-2.4 21z"/><path class="r" d="M35.3 -77.6l1.2-10.6 1.2-10.4 1.2-9.9 1.2-9.1 1.2-8.2 1.3-7 1.2-5.7 1.2-4.4 1.2-3 1.2-1.6 1.2-.4 1.2 .8 1.2 1.7 1.2 2.6 1.2 3.2 1.2 3.7 1.2 3.9 1.2 4.1 1.2 4 1.2 3.9 1.2 3.7 1.2 3.4 1.3 3.1 1.2 2.8 1.2 2.6 1.2 2.3 1.2 2.2 1.2 2.1 1.2 1.9 1.2 2 1.2 1.8 1.2 1.9 1.2 1.8 1.2 1.6 1.2 1.5 1.2 1.2 1.2 .9 1.2 .4 1.2-.1 1.2-.7 1.3-1.3 1.2-2 1.2-2.7 1.2-3.2 1.2-3.8 1.2-4.1 1.2-4.5 1.2-4.5 1.2-4.3 1.2-4.1 1.2-3.6 1.2-2.8 1.2-2.1 1.2-1 1.2 0 1.2 1.1 1.2 2.3 1.3 3.3 1.2 4.2 1.2 5.1 1.2 5.7 1.2 6.1 1.2 6.3 1.2 6.3 1.2 5.9 1.2 5.4 1.2 4.7 1.2 3.7 1.2 2.7 1.2 1.6 1.2 .3 1.2-.8 1.2-1.9 1.2-3 1.2-4 1.3-4.7 1.2-5.3 1.2-5.8 1.2-6.2 1.2-6.2 1.2-6.2 1.2-6.2 1.2-5.8 1.2-5.6 1.2-5.3 1.2-4.9 1.2-4.5 1.2-4.1 1.2-3.7 1.2-3.5 1.2-3 1.2-2.7 1.3-2.4 1.2-1.9 1.2-1.4 1.2-.9 1.2-.2 1.2 .6 1.2 1.4 1.2 2.5"/><path class="c" d="M155.9 -158.6m0 0l.7-1.6m-1.9-.9l.7-.7m-1.9-.7l.7 0m-1.9-.6l.7 .8m-1.9-.6l.7 1.5m-1.9-.6l.7 2.2m-1.9-.8l.7 2.8m-1.9-.9l.7 3.3m-2-.9l.8 3.7m-2-1l.7 4m-1.9-1l.7 4.3m-1.9-.8l.7 4.3m-1.9-.6l.7 4.4m-1.9-.3l.7 4.4m-1.9 .1l.7 4.4m-1.9 .5l.7 4.2m-1.9 1.1l.7 4m-1.9 1.6l.7 3.8m-1.9 2l.7 3.7m-1.9 2.5l.7 3.4m-1.9 2.8l.7 3.2m-1.9 3l.7 3.1m-1.9 3.1l.7 2.8m-1.9 3l.7 2.7m-1.9 2.6l.7 2.6m-2 2.1l.8 2.5m-2 1.5l.8 2.3m-2 .7l.7 2.2m-1.9-.3l.7 2m-1.9-1.2l.7 1.9m-1.9-2.2l.7 1.6m-1.9-3.2l.7 1.5m-1.9-4.2l.7 1.3m-1.9-5l.7 1m-1.9-5.7l.7 .8m-1.9-6.2l.7 .6m-1.9-6.5l.7 .3m-1.9-6.6l.7 .2m-1.9-6.5l.7 .1m-1.9-6.2l.7-.1m-1.9-5.6l.7-.1m-1.9-5l.7-.1m-1.9-4.1l.7 0m-2-3.3l.8 .1m-2-2.4l.7 .4m-1.9-1.5l.7 .7m-1.9-.7l.7 1m-1.9 0l.7 1.4m-1.9 .7l.7 1.8m-1.9 1l.7 2.3m-1.9 1.3l.7 2.6m-1.9 1.5l.7 3m-1.9 1.3l.7 3.4m-1.9 1.1l.7 3.6m-1.9 .9l.7 3.7m-1.9 .4l.7 3.8m-1.9 0l.7 3.8m-1.9-.6l.7 3.7m-1.9-1l.7 3.4m-1.9-1.4l.7 3.1m-2-1.8l.8 2.7m-2-2l.8 2.2m-2-2.1l.7 1.7m-1.9-2.1l.7 1.1m-1.9-2l.7 .6m-1.9-1.8l.7 0m-1.9-1.5l.7-.5m-1.9-1.1l.7-1m-1.9-.8l.7-1.4m-1.9-.5l.7-1.7m-1.9-.1l.7-2m-1.9 0l.7-2.1m-1.9 .2l.7-2.2m-1.9 .1l.7-2.1m-1.9-.1l.7-1.9m-1.9-.4l.7-1.8m-1.9-.8l.7-1.5m-1.9-1.3l.7-1.1m-2-2l.8-.8m-2-2.6l.7-.4m-1.9-3.3l.7 .1m-1.9-4l.7 .5m-1.9-4.5l.7 .9m-1.9-5l.7 1.3m-1.9-5.2l.7 1.7m-1.9-5.4l.7 2.1m-1.9-5.3l.7 2.5m-1.9-5.1l.7 2.9m-1.9-4.6l.7 3.2m-1.9-4l.7 3.6m-1.9-3.2l.7 4m-1.9-2.4l.7 4.4m-1.9-1.4l.7 4.8m-1.9-.4l.7 5.1m-1.9 .6l.7 5.5m-2 1.5l.8 5.9m-2 2.3l.7 6.1m-1.9 3l.7 6.4m-1.9 3.5l.7 6.6m-1.9 3.8l.7 6.8m-1.9 3.8l.7 6.9"/><path class="s" d="M54.1 -137.5L53.4 -139.6M79.4 -83.5L78.7 -84.1M102.3 -126.9L101.6 -127.6M119.2 -63.3L118.5 -64.8M154.2 -162.5L153.5 -162.5M152.3 -163.1L153.5 -162.5"/></g>
<g transform="translate(316 222)"><path class="fgR" d="M36 -65.6l2.4-21.4 2.5-19.9 2.4-16.4 2.4-11.5 2.4-6.1 2.4-1.2 2.4 2.8 2.4 5.3 2.4 6.4 2.4 6.2 2.5 5.5 2.4 4.6 2.4 4 2.4 3.9 2.4 4.3 2.4 4.8 2.4 5.2 2.4 4.7 2.5 3.4 2.4 1.2 2.4-2 2.4-5.2 2.4-7.9 2.4-9.7 2.4-9.8 2.4-7.9 2.4-4.6 2.5-.1 2.4 4.7 2.4 9.1 2.4 12 2.4 13.1 2.4 12.2 2.4 9.3 2.4 5 2.4 .3 2.5-4.3 2.4-8.1 2.4-10.5 2.4-11.6 2.4-11.6 2.4-10.7 2.4-9.5 2.4-8.5 2.5-7.5 2.4-6.9 2.4-6.1 2.4-4.7 2.4-2.6 2.4 .8-.7 1.4-2.4-2.3-2.4 1.1-2.4 3.6-2.4 5.2-2.5 6.3-2.4 7.3-2.4 8.6-2.4 9.8-2.4 11.1-2.4 11.9-2.4 12-2.4 10.9-2.4 8.4-2.5 4.6-2.4 .1-2.4-4.6-2.4-8.9-2.4-11.8-2.4-12.8-2.4-12-2.4-9.2-2.5-5.2-2.4-.5-2.4 3.9-2.4 7.2-2.4 9.2-2.4 9.3-2.4 8-2.4 5.5-2.4 2.6-2.5-.2-2.4-2.4-2.4-3.8-2.4-4.3-2.4-4.3-2.4-4.1-2.4-4-2.4-4.5-2.4-5.2-2.5-6.2-2.4-7.1-2.4-7.2-2.4-6.1-2.4-3.6-2.4 .4-2.4 5.4-2.4 10.8-2.5 15.8-2.4 19.5-2.4 21.3z"/><path class="r" d="M35.3 -72.2l1.2-10.7 1.2-10.6 1.2-10.1 1.2-9.4 1.3-8.4 1.2-7.4 1.2-6.1 1.2-4.7 1.2-3.4 1.2-2 1.2-.8 1.2 .4 1.2 1.4 1.2 2.2 1.2 2.8 1.2 3.3 1.2 3.5 1.2 3.7 1.2 3.6 1.2 3.5 1.2 3.2 1.3 3 1.2 2.8 1.2 2.4 1.2 2.3 1.2 2.2 1.2 2 1.2 2 1.2 2 1.2 2.1 1.2 2.1 1.2 2.2 1.2 2.2 1.2 2.1 1.2 2 1.2 1.8 1.2 1.4 1.2 1 1.3 .4 1.2-.2 1.2-.9 1.2-1.7 1.2-2.4 1.2-3.1 1.2-3.8 1.2-4.2 1.2-4.6 1.2-4.7 1.2-4.7 1.2-4.5 1.2-3.9 1.2-3.3 1.2-2.5 1.2-1.4 1.2-.3 1.2 .8 1.3 2 1.2 3.2 1.2 4.1 1.2 5.1 1.2 5.7 1.2 6.3 1.2 6.4 1.2 6.4 1.2 6.2 1.2 5.6 1.2 4.9 1.2 4 1.2 2.9 1.2 1.7 1.2 .6 1.2-.7 1.2-1.7 1.3-2.9 1.2-3.8 1.2-4.6 1.2-5.2 1.2-5.7 1.2-5.9 1.2-6.1 1.2-6 1.2-5.9 1.2-5.7 1.2-5.4 1.2-5.1 1.2-4.7 1.2-4.5 1.2-4.1 1.2-3.8 1.2-3.5 1.2-3.3 1.3-3 1.2-2.8 1.2-2.4 1.2-2 1.2-1.6 1.2-.9 1.2-.2 1.2 .7 1.2 1.6"/><path class="c" d="M155.9 -161.7m0 0l.7-1.4m-1.9-.2l.7-.7m-1.9 0l.7 .1m-1.9 .1l.7 .8m-1.9 .1l.7 1.6m-1.9 0l.7 2.1m-1.9-.1l.7 2.7m-1.9-.3l.7 3.3m-1.9-.5l.7 3.6m-2-.6l.8 4m-2-.7l.8 4.2m-2-.7l.7 4.4m-1.9-.6l.7 4.4m-1.9-.3l.7 4.4m-1.9 .1l.7 4.3m-1.9 .4l.7 4.2m-1.9 .9l.7 4m-1.9 1.4l.7 3.8m-1.9 1.9l.7 3.6m-1.9 2.3l.7 3.4m-1.9 2.6l.7 3.3m-1.9 2.8l.7 3.1m-1.9 2.8l.7 2.9m-1.9 2.8l.7 2.7m-1.9 2.5l.7 2.5m-1.9 2.1l.7 2.4m-1.9 1.4l.7 2.2m-2 .7l.8 2m-2-.3l.7 1.9m-1.9-1.2l.7 1.7m-1.9-2.3l.7 1.5m-1.9-3.2l.7 1.3m-1.9-4.2l.7 1.1m-1.9-5.1l.7 .9m-1.9-5.8l.7 .7m-1.9-6.3l.7 .5m-1.9-6.7l.7 .3m-1.9-6.7l.7 .2m-1.9-6.6l.7 0m-1.9-6.3l.7 0m-1.9-5.7l.7 0m-1.9-5.1l.7 .1m-1.9-4.2l.7 .1m-1.9-3.3l.7 .4m-2-2.4l.8 .6m-2-1.4l.8 .8m-2-.5l.7 1.2m-1.9 .2l.7 1.6m-1.9 .9l.7 1.9m-1.9 1.4l.7 2.2m-1.9 1.7l.7 2.6m-1.9 1.9l.7 2.9m-1.9 1.8l.7 3.2m-1.9 1.5l.7 3.4m-1.9 1.2l.7 3.6m-1.9 .6l.7 3.6m-1.9 .2l.7 3.5m-1.9-.4l.7 3.4m-1.9-1l.7 3.2m-1.9-1.5l.7 2.9m-1.9-2l.7 2.6m-1.9-2.4l.7 2.1m-2-2.5l.8 1.6m-2-2.6l.7 1.2m-1.9-2.6l.7 .6m-1.9-2.4l.7 .1m-1.9-2.1l.7-.3m-1.9-1.8l.7-.8m-1.9-1.4l.7-1.2m-1.9-1l.7-1.4m-1.9-.7l.7-1.7m-1.9-.4l.7-1.8m-1.9-.2l.7-1.9m-1.9-.1l.7-1.9m-1.9-.1l.7-1.8m-1.9-.4l.7-1.6m-1.9-.7l.7-1.3m-1.9-1.1l.7-1.1m-1.9-1.7l.7-.7m-2-2.3l.8-.3m-2-2.9l.7 0m-1.9-3.5l.7 .4m-1.9-4l.7 .9m-1.9-4.6l.7 1.3m-1.9-4.8l.7 1.7m-1.9-5l.7 2.1m-1.9-4.9l.7 2.5m-1.9-4.7l.7 2.9m-1.9-4.3l.7 3.3m-1.9-3.7l.7 3.7m-1.9-2.9l.7 4.1m-1.9-2.1l.7 4.5m-1.9-1.1l.7 4.8m-1.9-.1l.7 5.2m-1.9 .9l.7 5.5m-1.9 1.9l.7 5.8m-2 2.6l.8 6.1m-2 3.3l.8 6.3m-2 3.8l.7 6.5m-1.9 4.1l.7 6.5m-1.9 4.2l.7 6.6"/><path class="s" d="M55.3 -134L54.6 -135.7M80.6 -82.4L79.9 -83.6M103.6 -127L102.8 -127.6M119.2 -63.5L118.5 -64.8M154.2 -163.9L153.5 -164M53.4 -139L54.6 -135.7M78.7 -85L79.9 -83.6M101.6 -128.4L102.8 -127.6"/></g>
<g transform="translate(316.7 223.5)"><path class="fgR" d="M36 -60.9l2.5-21.3 2.4-20.2 2.4-16.9 2.4-12.1 2.4-6.9 2.4-1.9 2.4 2 2.4 4.4 2.4 5.5 2.5 5.5 2.4 4.7 2.4 4.1 2.4 3.6 2.4 3.8 2.4 4.5 2.4 5.4 2.4 5.8 2.4 5.7 2.5 4.3 2.4 1.9 2.4-1.3 2.4-4.8 2.4-8 2.4-10 2.4-10.2 2.4-8.6 2.5-5.2 2.4-.7 2.4 4.4 2.4 8.8 2.4 12 2.4 13.3 2.4 12.4 2.4 9.7 2.4 5.4 2.5 .7 2.4-3.9 2.4-7.7 2.4-10.1 2.4-11.2 2.4-11.1 2.4-10.4 2.4-9.3 2.4-8.4 2.5-7.8 2.4-7.5 2.4-6.9 2.4-5.9 2.4-3.9 2.4-.5-.7 1.1-2.4-.8-2.4 2.6-2.4 4.7-2.4 6.1-2.4 6.9-2.5 7.5-2.4 8.5-2.4 9.5-2.4 10.7-2.4 11.6-2.4 11.6-2.4 10.5-2.4 8.1-2.5 4.3-2.4-.3-2.4-5-2.4-9.3-2.4-12.2-2.4-13.1-2.4-12-2.4-9.1-2.4-4.7-2.5 .1-2.4 4.6-2.4 7.9-2.4 9.8-2.4 9.7-2.4 7.9-2.4 5.2-2.4 2-2.4-1.2-2.5-3.4-2.4-4.7-2.4-5.2-2.4-4.8-2.4-4.3-2.4-3.9-2.4-4-2.4-4.6-2.5-5.5-2.4-6.2-2.4-6.4-2.4-5.3-2.4-2.8-2.4 1.2-2.4 6.1-2.4 11.5-2.4 16.4-2.5 19.9-2.4 21.4z"/><path class="r" d="M35.3 -67.1l1.2-10.8 1.2-10.6 1.3-10.3 1.2-9.6 1.2-8.7 1.2-7.7 1.2-6.4 1.2-5.1 1.2-3.7 1.2-2.4 1.2-1.2 1.2 0 1.2 1 1.2 1.8 1.2 2.4 1.2 2.9 1.2 3.1 1.2 3.3 1.2 3.1 1.2 3.1 1.3 2.9 1.2 2.6 1.2 2.4 1.2 2.2 1.2 2 1.2 2 1.2 1.9 1.2 2 1.2 2.1 1.2 2.2 1.2 2.4 1.2 2.4 1.2 2.6 1.2 2.6 1.2 2.4 1.2 2.3 1.2 2 1.3 1.4 1.2 .9 1.2 .3 1.2-.6 1.2-1.4 1.2-2.2 1.2-3 1.2-3.7 1.2-4.2 1.2-4.8 1.2-4.9 1.2-5 1.2-4.8 1.2-4.3 1.2-3.6 1.2-2.8 1.2-1.8 1.3-.7 1.2 .6 1.2 1.8 1.2 2.9 1.2 4.1 1.2 5 1.2 5.7 1.2 6.3 1.2 6.6 1.2 6.5 1.2 6.4 1.2 5.8 1.2 5.1 1.2 4.2 1.2 3.1 1.2 1.9 1.2 .8 1.2-.5 1.3-1.6 1.2-2.7 1.2-3.6 1.2-4.5 1.2-5 1.2-5.5 1.2-5.7 1.2-5.9 1.2-5.9 1.2-5.7 1.2-5.5 1.2-5.2 1.2-4.9 1.2-4.6 1.2-4.4 1.2-4.1 1.2-3.8 1.3-3.7 1.2-3.5 1.2-3.4 1.2-3.1 1.2-3 1.2-2.6 1.2-2.1 1.2-1.7 1.2-.9 1.2-.1 1.2 .9"/><path class="c" d="M155.9 -164.6m0 0l.7-1.1m-1.9 .2l.7-.5m-1.9 .6l.7 .2m-1.9 .7l.7 .9m-1.9 .8l.7 1.5m-1.9 .6l.7 2.2m-1.9 .4l.7 2.7m-1.9 .3l.7 3.1m-1.9 0l.7 3.5m-1.9-.1l.7 3.8m-1.9-.3l.7 4.1m-2-.4l.8 4.2m-2-.4l.7 4.4m-1.9-.3l.7 4.4m-1.9 0l.7 4.3m-1.9 .3l.7 4.2m-1.9 .7l.7 4.1m-1.9 1.1l.7 3.9m-1.9 1.6l.7 3.8m-1.9 1.9l.7 3.6m-1.9 2.3l.7 3.3m-1.9 2.6l.7 3.1m-1.9 2.6l.7 2.9m-1.9 2.6l.7 2.7m-1.9 2.3l.7 2.5m-1.9 2l.7 2.3m-1.9 1.3l.7 2.1m-1.9 .6l.7 1.9m-2-.3l.8 1.7m-2-1.2l.8 1.5m-2-2.3l.7 1.3m-1.9-3.2l.7 1.1m-1.9-4.2l.7 .9m-1.9-5.1l.7 .7m-1.9-5.8l.7 .5m-1.9-6.3l.7 .4m-1.9-6.8l.7 .3m-1.9-6.8l.7 .2m-1.9-6.8l.7 .1m-1.9-6.4l.7 .1m-1.9-5.8l.7 .1m-1.9-5.1l.7 .2m-1.9-4.3l.7 .4m-1.9-3.3l.7 .5m-1.9-2.3l.7 .7m-1.9-1.3l.7 1m-2-.3l.8 1.3m-2 .5l.7 1.6m-1.9 1.2l.7 1.9m-1.9 1.7l.7 2.3m-1.9 2l.7 2.6m-1.9 2.2l.7 2.9m-1.9 2.1l.7 3m-1.9 1.9l.7 3.3m-1.9 1.5l.7 3.3m-1.9 .9l.7 3.4m-1.9 .3l.7 3.4m-1.9-.4l.7 3.2m-1.9-1l.7 3m-1.9-1.6l.7 2.7m-1.9-2.1l.7 2.3m-1.9-2.6l.7 2m-1.9-2.9l.7 1.6m-2-3l.8 1.1m-2-3.1l.7 .7m-1.9-3l.7 .2m-1.9-2.6l.7-.3m-1.9-2.3l.7-.6m-1.9-2l.7-.9m-1.9-1.5l.7-1.3m-1.9-1.1l.7-1.5m-1.9-.7l.7-1.6m-1.9-.5l.7-1.7m-1.9-.3l.7-1.6m-1.9-.3l.7-1.6m-1.9-.4l.7-1.4m-1.9-.6l.7-1.2m-1.9-1l.7-1m-1.9-1.4l.7-.7m-1.9-1.9l.7-.4m-2-2.5l.8 .1m-2-3.2l.8 .5m-2-3.6l.7 .8m-1.9-4.1l.7 1.3m-1.9-4.4l.7 1.7m-1.9-4.6l.7 2.2m-1.9-4.6l.7 2.6m-1.9-4.4l.7 3m-1.9-4l.7 3.4m-1.9-3.4l.7 3.8m-1.9-2.6l.7 4.1m-1.9-1.7l.7 4.5m-1.9-.8l.7 4.9m-1.9 .2l.7 5.2m-1.9 1.2l.7 5.5m-1.9 2.2l.7 5.8m-1.9 2.9l.7 6m-1.9 3.6l.7 6.2m-2 4.1l.8 6.3m-2 4.3l.7 6.4m-1.9 4.4l.7 6.2"/><path class="s" d="M55.3 -133.8L54.6 -135.5M80.7 -82.8L79.9 -83.9M103.6 -127.8L102.9 -128.5M119.2 -63.9L118.5 -65M155.4 -166L154.7 -165.5M153.5 -165.4L154.7 -165.5"/></g>
<g transform="translate(317.4 225)"><path class="fgR" d="M36.1 -56.3l2.4-21.2 2.4-20.4 2.4-17.3 2.4-12.8 2.4-7.5 2.4-2.8 2.4 1.1 2.4 3.6 2.5 4.7 2.4 4.6 2.4 4.1 2.4 3.6 2.4 3.3 2.4 3.8 2.4 4.7 2.4 5.8 2.4 6.6 2.5 6.4 2.4 5.1 2.4 2.6 2.4-.7 2.4-4.6 2.4-7.9 2.4-10.1 2.4-10.7 2.4-9.1 2.5-5.8 2.4-1.1 2.4 3.9 2.4 8.6 2.4 11.9 2.4 13.4 2.4 12.6 2.4 9.9 2.5 5.9 2.4 1 2.4-3.4 2.4-7.2 2.4-9.7 2.4-10.7 2.4-10.7 2.4-10.1 2.4-9.1 2.5-8.5 2.4-8.1 2.4-7.9 2.4-7.8 2.4-7 2.4-5.1 2.4-1.8-.7 1-2.4 .5-2.4 3.9-2.4 5.9-2.4 6.9-2.4 7.5-2.5 7.8-2.4 8.4-2.4 9.3-2.4 10.4-2.4 11.1-2.4 11.2-2.4 10.1-2.4 7.7-2.4 3.9-2.5-.7-2.4-5.4-2.4-9.7-2.4-12.4-2.4-13.3-2.4-12-2.4-8.8-2.4-4.4-2.4 .7-2.5 5.2-2.4 8.6-2.4 10.2-2.4 10-2.4 8-2.4 4.8-2.4 1.3-2.4-1.9-2.5-4.3-2.4-5.7-2.4-5.8-2.4-5.4-2.4-4.5-2.4-3.8-2.4-3.6-2.4-4.1-2.4-4.7-2.5-5.5-2.4-5.5-2.4-4.4-2.4-2-2.4 1.9-2.4 6.9-2.4 12.1-2.4 16.9-2.4 20.2-2.5 21.3z"/><path class="r" d="M35.3 -62.4l1.2-10.6 1.3-10.7 1.2-10.4 1.2-9.8 1.2-8.9 1.2-8 1.2-6.7 1.2-5.4 1.2-4.1 1.2-2.8 1.2-1.5 1.2-.4 1.2 .6 1.2 1.4 1.2 2 1.2 2.4 1.2 2.7 1.2 2.8 1.3 2.8 1.2 2.7 1.2 2.4 1.2 2.3 1.2 2.1 1.2 2 1.2 1.8 1.2 1.8 1.2 1.9 1.2 1.9 1.2 2.2 1.2 2.3 1.2 2.6 1.2 2.8 1.2 2.9 1.2 2.9 1.2 2.9 1.2 2.8 1.3 2.4 1.2 1.9 1.2 1.3 1.2 .6 1.2-.2 1.2-1.1 1.2-2 1.2-2.8 1.2-3.7 1.2-4.3 1.2-4.8 1.2-5.2 1.2-5.1 1.2-5.1 1.2-4.6 1.2-4 1.2-3.1 1.3-2.1 1.2-1 1.2 .3 1.2 1.6 1.2 2.8 1.2 3.9 1.2 4.9 1.2 5.7 1.2 6.3 1.2 6.7 1.2 6.6 1.2 6.5 1.2 5.9 1.2 5.3 1.2 4.4 1.2 3.3 1.2 2.1 1.3 1 1.2-.3 1.2-1.4 1.2-2.5 1.2-3.4 1.2-4.3 1.2-4.8 1.2-5.3 1.2-5.5 1.2-5.7 1.2-5.6 1.2-5.5 1.2-5.4 1.2-5 1.2-4.8 1.2-4.5 1.2-4.3 1.2-4.1 1.3-4 1.2-3.8 1.2-3.8 1.2-3.7 1.2-3.5 1.2-3.4 1.2-3.1 1.2-2.8 1.2-2.3 1.2-1.6 1.2-.8 1.2 .3"/><path class="c" d="M155.9 -167.2m0 0l.7-1m-1.9 .7l.7-.3m-1.9 1.1l.7 .3m-1.9 1.3l.7 .9m-1.9 1.4l.7 1.5m-1.9 1.3l.7 2m-1.9 1.1l.7 2.6m-1.9 .8l.7 3m-1.9 .5l.7 3.5m-1.9 .2l.7 3.7m-1.9 .1l.7 3.9m-1.9-.1l.7 4.2m-2-.2l.8 4.2m-2-.1l.8 4.3m-2 0l.7 4.3m-1.9 .2l.7 4.2m-1.9 .6l.7 4.1m-1.9 .9l.7 4m-1.9 1.4l.7 3.8m-1.9 1.7l.7 3.6m-1.9 2l.7 3.4m-1.9 2.3l.7 3.1m-1.9 2.4l.7 2.9m-1.9 2.4l.7 2.7m-1.9 2.1l.7 2.5m-1.9 1.8l.7 2.2m-1.9 1.2l.7 2m-1.9 .5l.7 1.7m-1.9-.3l.7 1.5m-1.9-1.2l.7 1.3m-2-2.3l.8 1.2m-2-3.3l.7 .9m-1.9-4.2l.7 .7m-1.9-5.1l.7 .6m-1.9-5.9l.7 .5m-1.9-6.4l.7 .3m-1.9-6.8l.7 .3m-1.9-6.9l.7 .2m-1.9-6.9l.7 .2m-1.9-6.5l.7 .3m-1.9-6l.7 .3m-1.9-5.2l.7 .4m-1.9-4.3l.7 .5m-1.9-3.3l.7 .7m-1.9-2.3l.7 1m-1.9-1.3l.7 1.2m-1.9-.2l.7 1.4m-2 .7l.8 1.7m-2 1.4l.7 2m-1.9 2l.7 2.3m-1.9 2.3l.7 2.5m-1.9 2.6l.7 2.7m-1.9 2.4l.7 3m-1.9 2.2l.7 3m-1.9 1.8l.7 3.1m-1.9 1.2l.7 3.1m-1.9 .6l.7 3m-1.9-.2l.7 3m-1.9-1l.7 2.8m-1.9-1.7l.7 2.5m-1.9-2.3l.7 2.2m-1.9-2.8l.7 1.9m-1.9-3.2l.7 1.5m-1.9-3.4l.7 1.1m-2-3.5l.8 .7m-2-3.5l.8 .4m-2-3.3l.7 0m-1.9-2.9l.7-.4m-1.9-2.5l.7-.8m-1.9-2l.7-1m-1.9-1.6l.7-1.2m-1.9-1.1l.7-1.4m-1.9-.8l.7-1.4m-1.9-.5l.7-1.5m-1.9-.4l.7-1.4m-1.9-.4l.7-1.3m-1.9-.5l.7-1.1m-1.9-.9l.7-.9m-1.9-1.2l.7-.6m-1.9-1.7l.7-.2m-1.9-2.2l.7 0m-1.9-2.7l.7 .4m-2-3.2l.8 .9m-2-3.7l.7 1.3m-1.9-4l.7 1.7m-1.9-4.1l.7 2.1m-1.9-4.1l.7 2.5m-1.9-3.9l.7 3m-1.9-3.6l.7 3.4m-1.9-3l.7 3.8m-1.9-2.3l.7 4.3m-1.9-1.5l.7 4.6m-1.9-.5l.7 4.9m-1.9 .5l.7 5.3m-1.9 1.4l.7 5.6m-1.9 2.4l.7 5.7m-1.9 3.2l.7 6m-1.9 3.8l.7 6.1m-1.9 4.3l.7 6.2m-2 4.5l.8 6.1m-2 4.5l.8 6.1"/><path class="s" d="M56.5 -131.3L55.8 -132.6M80.7 -83.2L80 -84.3M103.6 -128.3L102.9 -129.3M120.5 -62.1L119.7 -63.3M155.4 -167.8L154.7 -167.5M54.6 -135.3L55.8 -132.6M118.5 -65.4L119.7 -63.3"/></g>
<g transform="translate(318.1 226.5)"><path class="fgR" d="M36.1 -52.1l2.4-21 2.4-20.4 2.4-17.6 2.4-13.3 2.4-8.3 2.4-3.6 2.4 .2 2.5 2.7 2.4 3.8 2.4 3.9 2.4 3.5 2.4 3.1 2.4 3.1 2.4 3.8 2.4 5 2.4 6.2 2.5 7.2 2.4 7 2.4 5.8 2.4 3.3 2.4-.3 2.4-4.3 2.4-7.8 2.4-10.3 2.4-10.9 2.5-9.5 2.4-6.3 2.4-1.6 2.4 3.5 2.4 8.3 2.4 11.8 2.4 13.3 2.4 12.7 2.4 10.2 2.5 6.2 2.4 1.5 2.4-3 2.4-6.6 2.4-9.1 2.4-10.2 2.4-10.4 2.4-9.7 2.5-9 2.4-8.5 2.4-8.5 2.4-8.5 2.4-8.6 2.4-8 2.4-6.2 2.4-2.9-.7 .7-2.4 1.8-2.4 5.1-2.4 7-2.4 7.8-2.4 7.9-2.4 8.1-2.5 8.5-2.4 9.1-2.4 10.1-2.4 10.7-2.4 10.7-2.4 9.7-2.4 7.2-2.4 3.4-2.4-1-2.5-5.9-2.4-9.9-2.4-12.6-2.4-13.4-2.4-11.9-2.4-8.6-2.4-3.9-2.4 1.1-2.5 5.8-2.4 9.1-2.4 10.7-2.4 10.1-2.4 7.9-2.4 4.6-2.4 .7-2.4-2.6-2.4-5.1-2.5-6.4-2.4-6.6-2.4-5.8-2.4-4.7-2.4-3.8-2.4-3.3-2.4-3.6-2.4-4.1-2.4-4.6-2.5-4.7-2.4-3.6-2.4-1.1-2.4 2.8-2.4 7.5-2.4 12.8-2.4 17.3-2.4 20.4-2.4 21.2z"/><path class="r" d="M35.4 -57.8l1.2-10.6 1.2-10.6 1.2-10.5 1.2-9.9 1.2-9.2 1.2-8.1 1.2-7 1.2-5.8 1.2-4.4 1.2-3.1 1.2-2 1.2-.8 1.2 .2 1.2 .9 1.2 1.6 1.2 2 1.2 2.3 1.3 2.4 1.2 2.3 1.2 2.3 1.2 2.2 1.2 1.9 1.2 1.8 1.2 1.8 1.2 1.6 1.2 1.7 1.2 1.8 1.2 2 1.2 2.2 1.2 2.5 1.2 2.8 1.2 3 1.2 3.3 1.2 3.3 1.3 3.3 1.2 3.1 1.2 2.8 1.2 2.3 1.2 1.7 1.2 .9 1.2 .1 1.2-.8 1.2-1.8 1.2-2.8 1.2-3.6 1.2-4.3 1.2-4.9 1.2-5.2 1.2-5.4 1.2-5.3 1.2-4.8 1.2-4.3 1.3-3.4 1.2-2.4 1.2-1.2 1.2 .1 1.2 1.3 1.2 2.6 1.2 3.8 1.2 4.8 1.2 5.7 1.2 6.2 1.2 6.7 1.2 6.7 1.2 6.5 1.2 6.1 1.2 5.4 1.2 4.5 1.2 3.5 1.3 2.4 1.2 1.1 1.2-.1 1.2-1.2 1.2-2.2 1.2-3.2 1.2-4 1.2-4.6 1.2-5.1 1.2-5.3 1.2-5.4 1.2-5.4 1.2-5.3 1.2-5.2 1.2-4.9 1.2-4.7 1.2-4.4 1.3-4.3 1.2-4.2 1.2-4 1.2-4.1 1.2-4 1.2-3.9 1.2-4 1.2-3.8 1.2-3.7 1.2-3.3 1.2-2.9 1.2-2.2 1.2-1.4 1.2-.4"/><path class="c" d="M155.9 -169.7m0 0l.7-.7m-1.9 1.1l.7-.2m-1.9 1.6l.7 .4m-1.9 1.8l.7 1m-1.9 1.9l.7 1.5m-1.9 1.8l.7 2m-1.9 1.7l.7 2.5m-1.9 1.3l.7 2.9m-1.9 1.1l.7 3.3m-1.9 .6l.7 3.7m-1.9 .3l.7 3.9m-1.9 .2l.7 4.1m-1.9-.1l.7 4.3m-1.9-.1l.7 4.3m-2 0l.8 4.3m-2 .1l.7 4.3m-1.9 .4l.7 4.2m-1.9 .7l.7 4.1m-1.9 1.1l.7 3.8m-1.9 1.5l.7 3.7m-1.9 1.7l.7 3.5m-1.9 1.9l.7 3.2m-1.9 2.1l.7 3m-1.9 2.1l.7 2.7m-1.9 1.9l.7 2.4m-1.9 1.6l.7 2.1m-1.9 1.1l.7 1.8m-1.9 .4l.7 1.6m-1.9-.4l.7 1.4m-1.9-1.3l.7 1.1m-1.9-2.2l.7 .9m-2-3.3l.8 .7m-2-4.2l.7 .6m-1.9-5.1l.7 .4m-1.9-5.8l.7 .3m-1.9-6.4l.7 .3m-1.9-6.8l.7 .2m-1.9-6.9l.7 .2m-1.9-6.9l.7 .3m-1.9-6.5l.7 .3m-1.9-6l.7 .4m-1.9-5.2l.7 .6m-1.9-4.4l.7 .7m-1.9-3.3l.7 .9m-1.9-2.2l.7 1.1m-1.9-1.2l.7 1.4m-1.9-.2l.7 1.6m-1.9 .8l.7 1.9m-2 1.5l.8 2.1m-2 2.2l.8 2.3m-2 2.5l.7 2.5m-1.9 2.8l.7 2.7m-1.9 2.7l.7 2.7m-1.9 2.5l.7 2.9m-1.9 2l.7 2.9m-1.9 1.4l.7 2.9m-1.9 .7l.7 2.8m-1.9 0l.7 2.6m-1.9-.8l.7 2.5m-1.9-1.7l.7 2.3m-1.9-2.4l.7 2.1m-1.9-3l.7 1.7m-1.9-3.4l.7 1.4m-1.9-3.7l.7 1.1m-1.9-3.9l.7 .7m-1.9-3.8l.7 .4m-2-3.7l.8 .1m-2-3.4l.7-.3m-1.9-3l.7-.5m-1.9-2.5l.7-.7m-1.9-2.1l.7-.9m-1.9-1.6l.7-1m-1.9-1.2l.7-1.2m-1.9-.8l.7-1.2m-1.9-.6l.7-1.2m-1.9-.5l.7-1.1m-1.9-.5l.7-1m-1.9-.8l.7-.8m-1.9-1l.7-.5m-1.9-1.4l.7-.3m-1.9-1.9l.7 .1m-1.9-2.4l.7 .5m-1.9-2.8l.7 .8m-2-3.2l.8 1.2m-2-3.5l.8 1.7m-2-3.7l.7 2.1m-1.9-3.7l.7 2.6m-1.9-3.5l.7 3m-1.9-3.2l.7 3.5m-1.9-2.7l.7 3.9m-1.9-1.9l.7 4.3m-1.9-1.2l.7 4.7m-1.9-.3l.7 5.1m-1.9 .7l.7 5.3m-1.9 1.7l.7 5.6m-1.9 2.5l.7 5.8m-1.9 3.4l.7 5.9m-1.9 4l.7 6m-1.9 4.5l.7 5.9m-1.9 4.7l.7 5.9m-1.9 4.7l.7 5.7"/><path class="s" d="M56.6 -131.6L55.8 -132.8M81.9 -81L81.2 -82.4M104.8 -127.6L104.1 -128.5M120.5 -62.7L119.8 -63.6M155.4 -169.5L154.7 -169.3M80 -84.7L81.2 -82.4M102.9 -129.8L104.1 -128.5"/></g>
<g transform="translate(318.8 228)"><path class="fgR" d="M36.1 -48.1l2.4-20.6 2.4-20.4 2.4-17.9 2.4-13.8 2.4-9.1 2.4-4.4 2.4-.8 2.5 1.8 2.4 2.9 2.4 3.2 2.4 3 2.4 2.7 2.4 3 2.4 3.9 2.4 5.2 2.5 6.7 2.4 7.6 2.4 7.6 2.4 6.4 2.4 3.7 2.4 .1 2.4-3.9 2.4-7.7 2.4-10.3 2.5-11.1 2.4-9.8 2.4-6.7 2.4-2 2.4 3.1 2.4 7.9 2.4 11.5 2.4 13.2 2.4 12.7 2.5 10.4 2.4 6.5 2.4 2 2.4-2.4 2.4-6.1 2.4-8.4 2.4-9.7 2.4-9.9 2.4-9.5 2.5-8.9 2.4-8.7 2.4-8.8 2.4-9.1 2.4-9.4 2.4-8.9 2.4-7.2 2.4-4-.7 .6-2.4 2.9-2.4 6.2-2.4 8-2.4 8.6-2.4 8.5-2.4 8.5-2.4 8.5-2.5 9-2.4 9.7-2.4 10.4-2.4 10.2-2.4 9.1-2.4 6.6-2.4 3-2.4-1.5-2.5-6.2-2.4-10.2-2.4-12.7-2.4-13.3-2.4-11.8-2.4-8.3-2.4-3.5-2.4 1.6-2.4 6.3-2.5 9.5-2.4 10.9-2.4 10.3-2.4 7.8-2.4 4.3-2.4 .3-2.4-3.3-2.4-5.8-2.4-7-2.5-7.2-2.4-6.2-2.4-5-2.4-3.8-2.4-3.1-2.4-3.1-2.4-3.5-2.4-3.9-2.4-3.8-2.5-2.7-2.4-.2-2.4 3.6-2.4 8.3-2.4 13.3-2.4 17.6-2.4 20.4-2.4 21z"/><path class="r" d="M35.4 -53.6l1.2-10.4 1.2-10.6 1.2-10.4 1.2-10 1.2-9.3 1.2-8.3 1.2-7.3 1.2-6 1.2-4.8 1.2-3.5 1.2-2.4 1.2-1.2 1.2-.3 1.2 .5 1.2 1.1 1.3 1.6 1.2 1.8 1.2 2 1.2 2 1.2 1.9 1.2 1.8 1.2 1.7 1.2 1.5 1.2 1.6 1.2 1.5 1.2 1.6 1.2 1.8 1.2 2 1.2 2.4 1.2 2.6 1.2 3 1.2 3.2 1.2 3.5 1.3 3.7 1.2 3.6 1.2 3.4 1.2 3.2 1.2 2.6 1.2 2 1.2 1.3 1.2 .3 1.2-.6 1.2-1.7 1.2-2.6 1.2-3.5 1.2-4.3 1.2-4.9 1.2-5.4 1.2-5.4 1.2-5.5 1.3-5 1.2-4.5 1.2-3.6 1.2-2.7 1.2-1.4 1.2-.2 1.2 1.1 1.2 2.4 1.2 3.7 1.2 4.6 1.2 5.6 1.2 6.2 1.2 6.6 1.2 6.7 1.2 6.6 1.2 6.1 1.2 5.5 1.2 4.7 1.3 3.6 1.2 2.6 1.2 1.3 1.2 .2 1.2-1 1.2-2 1.2-2.9 1.2-3.7 1.2-4.3 1.2-4.8 1.2-5.1 1.2-5.1 1.2-5.2 1.2-5.2 1.2-4.9 1.2-4.8 1.2-4.6 1.3-4.4 1.2-4.3 1.2-4.2 1.2-4.2 1.2-4.3 1.2-4.2 1.2-4.3 1.2-4.4 1.2-4.2 1.2-4.2 1.2-3.8 1.2-3.4 1.2-2.8 1.2-2 1.2-.9"/><path class="c" d="M155.9 -171.9m0 0l.7-.6m-1.9 1.5l.7 0m-1.9 2l.7 .5m-1.9 2.3l.7 1m-1.9 2.4l.7 1.5m-1.9 2.3l.7 2m-1.9 2.2l.7 2.4m-1.9 1.8l.7 2.9m-1.9 1.5l.7 3.2m-1.9 1.1l.7 3.5m-1.9 .7l.7 3.8m-1.9 .5l.7 4m-1.9 .2l.7 4.1m-1.9 .1l.7 4.3m-1.9 0l.7 4.3m-2 .1l.8 4.3m-2 .3l.7 4.2m-1.9 .6l.7 4.1m-1.9 .8l.7 4m-1.9 1.2l.7 3.7m-1.9 1.5l.7 3.5m-1.9 1.6l.7 3.3m-1.9 1.8l.7 3m-1.9 1.8l.7 2.6m-1.9 1.7l.7 2.3m-1.9 1.4l.7 2m-1.9 .9l.7 1.8m-1.9 .2l.7 1.5m-1.9-.5l.7 1.2m-1.9-1.4l.7 .9m-1.9-2.2l.7 .7m-1.9-3.3l.7 .6m-2-4.2l.8 .4m-2-5.1l.8 .3m-2-5.8l.7 .2m-1.9-6.3l.7 .1m-1.9-6.7l.7 .2m-1.9-6.9l.7 .2m-1.9-6.8l.7 .3m-1.9-6.5l.7 .4m-1.9-6l.7 .6m-1.9-5.2l.7 .7m-1.9-4.4l.7 1m-1.9-3.4l.7 1.2m-1.9-2.3l.7 1.4m-1.9-1.2l.7 1.6m-1.9-.2l.7 1.8m-1.9 .9l.7 1.9m-1.9 1.7l.7 2.2m-1.9 2.3l.7 2.3m-2 2.7l.8 2.5m-2 3l.7 2.5m-1.9 2.9l.7 2.7m-1.9 2.7l.7 2.6m-1.9 2.3l.7 2.7m-1.9 1.6l.7 2.6m-1.9 .9l.7 2.6m-1.9 0l.7 2.5m-1.9-.8l.7 2.2m-1.9-1.6l.7 2.1m-1.9-2.4l.7 1.8m-1.9-3.1l.7 1.7m-1.9-3.7l.7 1.4m-1.9-4l.7 1.1m-1.9-4.3l.7 .8m-1.9-4.2l.7 .5m-1.9-4.1l.7 .2m-2-3.9l.8 0m-2-3.5l.8-.2m-2-3l.7-.5m-1.9-2.5l.7-.7m-1.9-1.9l.7-.9m-1.9-1.5l.7-.9m-1.9-1.1l.7-1m-1.9-.8l.7-1m-1.9-.6l.7-1m-1.9-.5l.7-.9m-1.9-.7l.7-.7m-1.9-.8l.7-.5m-1.9-1.2l.7-.3m-1.9-1.5l.7 0m-1.9-1.9l.7 .3m-1.9-2.3l.7 .7m-1.9-2.7l.7 1.2m-1.9-3l.7 1.6m-2-3.2l.8 2.1m-2-3.2l.7 2.5m-1.9-3l.7 3m-1.9-2.7l.7 3.5m-1.9-2.3l.7 4m-1.9-1.6l.7 4.3m-1.9-.8l.7 4.7m-1.9 .1l.7 5.1m-1.9 .9l.7 5.4m-1.9 1.9l.7 5.6m-1.9 2.7l.7 5.8m-1.9 3.5l.7 5.9m-1.9 4.1l.7 5.9m-1.9 4.5l.7 5.9m-1.9 4.7l.7 5.7m-1.9 4.7l.7 5.5"/><path class="s" d="M56.6 -131.9L55.9 -133.1M81.9 -81.1L81.2 -82.5M104.8 -127.9L104.1 -129.1M121.7 -62L121 -62.9M119.8 -64.2L121 -62.9M154.7 -171L155.9 -171.9"/></g>
<g transform="translate(319.6 229.5)"><path class="fgR" d="M36 -44.5l2.4-20.1 2.4-20.2 2.4-18.1 2.4-14.3 2.4-9.7 2.4-5.4 2.5-1.7 2.4 .8 2.4 2.1 2.4 2.5 2.4 2.4 2.4 2.5 2.4 2.9 2.4 4 2.4 5.5 2.5 7 2.4 8.1 2.4 8.1 2.4 6.8 2.4 4.1 2.4 .5 2.4-3.8 2.4-7.5 2.5-10.2 2.4-11.2 2.4-10 2.4-6.9 2.4-2.5 2.4 2.7 2.4 7.5 2.4 11.2 2.4 12.9 2.5 12.7 2.4 10.4 2.4 6.9 2.4 2.5 2.4-1.8 2.4-5.3 2.4-7.8 2.4-9.1 2.4-9.4 2.5-9.3 2.4-8.9 2.4-8.9 2.4-9.2 2.4-9.8 2.4-10.1 2.4-9.8 2.4-8.1 2.4-4.8-.7 .3-2.4 4-2.4 7.2-2.4 8.9-2.4 9.4-2.4 9.1-2.4 8.8-2.4 8.7-2.5 8.9-2.4 9.5-2.4 9.9-2.4 9.7-2.4 8.4-2.4 6.1-2.4 2.4-2.4-2-2.4-6.5-2.5-10.4-2.4-12.7-2.4-13.2-2.4-11.5-2.4-7.9-2.4-3.1-2.4 2-2.4 6.7-2.4 9.8-2.5 11.1-2.4 10.3-2.4 7.7-2.4 3.9-2.4-.1-2.4-3.7-2.4-6.4-2.4-7.6-2.4-7.6-2.5-6.7-2.4-5.2-2.4-3.9-2.4-3-2.4-2.7-2.4-3-2.4-3.2-2.4-2.9-2.5-1.8-2.4 .8-2.4 4.4-2.4 9.1-2.4 13.8-2.4 17.9-2.4 20.4-2.4 20.6z"/><path class="r" d="M35.3 -49.6l1.2-10.2 1.2-10.4 1.2-10.4 1.2-10 1.2-9.4 1.2-8.5 1.2-7.5 1.2-6.3 1.2-5.2 1.2-3.9 1.2-2.7 1.2-1.7 1.2-.8 1.2 0 1.3 .7 1.2 1.1 1.2 1.4 1.2 1.5 1.2 1.6 1.2 1.6 1.2 1.5 1.2 1.5 1.2 1.3 1.2 1.4 1.2 1.4 1.2 1.6 1.2 1.8 1.2 2.1 1.2 2.4 1.2 2.8 1.2 3.2 1.3 3.5 1.2 3.7 1.2 3.9 1.2 3.9 1.2 3.7 1.2 3.5 1.2 2.9 1.2 2.3 1.2 1.4 1.2 .6 1.2-.5 1.2-1.4 1.2-2.5 1.2-3.5 1.2-4.2 1.2-5 1.2-5.3 1.2-5.6 1.3-5.5 1.2-5.2 1.2-4.6 1.2-3.9 1.2-2.8 1.2-1.6 1.2-.4 1.2 .9 1.2 2.2 1.2 3.4 1.2 4.5 1.2 5.4 1.2 6.1 1.2 6.5 1.2 6.7 1.2 6.5 1.2 6.2 1.3 5.6 1.2 4.8 1.2 3.8 1.2 2.7 1.2 1.5 1.2 .5 1.2-.7 1.2-1.7 1.2-2.7 1.2-3.4 1.2-4 1.2-4.4 1.2-4.8 1.2-4.9 1.2-5 1.2-4.9 1.2-4.8 1.2-4.7 1.3-4.5 1.2-4.4 1.2-4.3 1.2-4.4 1.2-4.3 1.2-4.5 1.2-4.5 1.2-4.6 1.2-4.7 1.2-4.7 1.2-4.6 1.2-4.3 1.2-3.9 1.2-3.3 1.2-2.5 1.2-1.5"/><path class="c" d="M155.8 -174m0 0l.7-.3m-1.9 1.8l.7 .1m-1.9 2.4l.7 .5m-1.9 2.8l.7 1m-1.9 2.9l.7 1.4m-1.9 2.9l.7 1.9m-1.9 2.7l.7 2.3m-1.9 2.4l.7 2.7m-1.9 2l.7 3m-1.9 1.6l.7 3.4m-1.9 1.1l.7 3.7m-1.9 .8l.7 3.9m-1.9 .4l.7 4.1m-1.9 .3l.7 4.2m-1.9 .1l.7 4.3m-1.9 .1l.7 4.4m-2 .1l.8 4.3m-2 .4l.8 4.2m-2 .6l.7 4.1m-1.9 .8l.7 3.9m-1.9 1.1l.7 3.6m-1.9 1.3l.7 3.3m-1.9 1.5l.7 3m-1.9 1.4l.7 2.7m-1.9 1.3l.7 2.4m-1.9 1l.7 2m-1.9 .7l.7 1.6m-1.9 .1l.7 1.3m-1.9-.6l.7 1m-1.9-1.5l.7 .8m-1.9-2.3l.7 .5m-1.9-3.2l.7 .3m-1.9-4.1l.7 .1m-1.9-4.9l.7 .1m-2-5.7l.8 .1m-2-6.3l.7 .1m-1.9-6.6l.7 .1m-1.9-6.8l.7 .3m-1.9-6.8l.7 .4m-1.9-6.5l.7 .6m-1.9-6l.7 .7m-1.9-5.2l.7 .9m-1.9-4.3l.7 1.1m-1.9-3.3l.7 1.3m-1.9-2.2l.7 1.5m-1.9-1.1l.7 1.7m-1.9-.1l.7 2m-1.9 .8l.7 2.1m-1.9 1.8l.7 2.2m-1.9 2.4l.7 2.3m-1.9 2.9l.7 2.4m-2 3.1l.8 2.5m-2 3.1l.8 2.5m-2 2.8l.7 2.5m-1.9 2.5l.7 2.4m-1.9 1.8l.7 2.4m-1.9 1.1l.7 2.2m-1.9 .3l.7 2.1m-1.9-.7l.7 2.1m-1.9-1.6l.7 1.9m-1.9-2.5l.7 1.7m-1.9-3.1l.7 1.5m-1.9-3.8l.7 1.3m-1.9-4.2l.7 1m-1.9-4.5l.7 .9m-1.9-4.6l.7 .6m-1.9-4.5l.7 .4m-1.9-4.3l.7 .2m-1.9-3.9l.7-.1m-2-3.4l.8-.2m-2-3l.7-.4m-1.9-2.4l.7-.5m-1.9-1.9l.7-.7m-1.9-1.4l.7-.8m-1.9-1l.7-.8m-1.9-.8l.7-.8m-1.9-.6l.7-.7m-1.9-.7l.7-.6m-1.9-.7l.7-.5m-1.9-1l.7-.2m-1.9-1.3l.7 .1m-1.9-1.7l.7 .4m-1.9-2l.7 .8m-1.9-2.3l.7 1.1m-1.9-2.5l.7 1.6m-1.9-2.7l.7 2.1m-2-2.8l.8 2.6m-2-2.6l.7 3.1m-1.9-2.3l.7 3.5m-1.9-1.8l.7 4m-1.9-1.3l.7 4.5m-1.9-.6l.7 4.9m-1.9 .3l.7 5.1m-1.9 1.2l.7 5.4m-1.9 2.1l.7 5.6m-1.9 2.9l.7 5.8m-1.9 3.6l.7 5.8m-1.9 4.2l.7 5.7m-1.9 4.7l.7 5.6m-1.9 4.8l.7 5.4m-1.9 4.8l.7 5.1"/><path class="s" d="M57.7 -131.1L57 -131.9M83 -78.8L82.3 -80.3M105.9 -126.1L105.2 -127.2M121.6 -62.7L120.9 -63.5M55.8 -133.4L57 -131.9M81.1 -82.6L82.3 -80.3M104 -129.4L105.2 -127.2"/></g>
<g transform="translate(320.3 231)"><path class="fgR" d="M36 -41l2.4-19.6 2.4-20 2.4-18.1 2.4-14.7 2.4-10.5 2.5-6.3 2.4-2.7 2.4-.2 2.4 1.2 2.4 1.8 2.4 2 2.4 2.2 2.4 3 2.4 4.2 2.5 5.8 2.4 7.3 2.4 8.5 2.4 8.4 2.4 7.1 2.4 4.4 2.4 .7 2.4-3.5 2.4-7.3 2.5-10.1 2.4-11.1 2.4-10.1 2.4-7.1 2.4-2.8 2.4 2.3 2.4 7 2.4 10.7 2.5 12.6 2.4 12.5 2.4 10.6 2.4 7.1 2.4 3 2.4-1.1 2.4-4.6 2.4-7 2.4-8.5 2.5-8.9 2.4-9 2.4-8.9 2.4-9.2 2.4-9.7 2.4-10.4 2.4-10.9 2.4-10.5 2.4-9 2.5-5.6-.8 .2-2.4 4.8-2.4 8.1-2.4 9.8-2.4 10.1-2.4 9.8-2.4 9.2-2.4 8.9-2.4 8.9-2.5 9.3-2.4 9.4-2.4 9.1-2.4 7.8-2.4 5.3-2.4 1.8-2.4-2.5-2.4-6.9-2.4-10.4-2.5-12.7-2.4-12.9-2.4-11.2-2.4-7.5-2.4-2.7-2.4 2.5-2.4 6.9-2.4 10-2.4 11.2-2.5 10.2-2.4 7.5-2.4 3.8-2.4-.5-2.4-4.1-2.4-6.8-2.4-8.1-2.4-8.1-2.5-7-2.4-5.5-2.4-4-2.4-2.9-2.4-2.5-2.4-2.4-2.4-2.5-2.4-2.1-2.4-.8-2.5 1.7-2.4 5.4-2.4 9.7-2.4 14.3-2.4 18.1-2.4 20.2-2.4 20.1z"/><path class="r" d="M35.3 -46l1.2-9.9 1.2-10.2 1.2-10.3 1.2-9.9 1.2-9.4 1.2-8.7 1.2-7.7 1.2-6.6 1.2-5.4 1.2-4.3 1.2-3.2 1.2-2.2 1.2-1.2 1.3-.5 1.2 .2 1.2 .6 1.2 .9 1.2 1.2 1.2 1.2 1.2 1.3 1.2 1.2 1.2 1.2 1.2 1.2 1.2 1.3 1.2 1.3 1.2 1.6 1.2 1.8 1.2 2.2 1.2 2.6 1.2 2.9 1.3 3.4 1.2 3.6 1.2 4 1.2 4.1 1.2 4.1 1.2 4 1.2 3.6 1.2 3.2 1.2 2.5 1.2 1.6 1.2 .8 1.2-.3 1.2-1.4 1.2-2.4 1.2-3.3 1.2-4.2 1.2-4.9 1.3-5.3 1.2-5.6 1.2-5.6 1.2-5.3 1.2-4.7 1.2-4 1.2-2.9 1.2-1.9 1.2-.6 1.2 .7 1.2 2 1.2 3.2 1.2 4.3 1.2 5.3 1.2 5.9 1.2 6.4 1.2 6.5 1.2 6.5 1.3 6.2 1.2 5.6 1.2 4.8 1.2 4 1.2 2.9 1.2 1.8 1.2 .7 1.2-.4 1.2-1.4 1.2-2.3 1.2-3 1.2-3.7 1.2-4.1 1.2-4.5 1.2-4.6 1.2-4.7 1.2-4.7 1.3-4.7 1.2-4.6 1.2-4.4 1.2-4.5 1.2-4.4 1.2-4.5 1.2-4.5 1.2-4.7 1.2-4.8 1.2-5 1.2-5 1.2-5.1 1.2-5 1.2-4.8 1.2-4.3 1.2-3.8 1.2-2.9 1.2-1.9"/><path class="c" d="M155.8 -175.8m0 0l.8-.2m-2 2.1l.8 .2m-2 2.7l.7 .6m-1.9 3.2l.7 1m-1.9 3.3l.7 1.5m-1.9 3.3l.7 1.8m-1.9 3.2l.7 2.2m-1.9 2.9l.7 2.6m-1.9 2.4l.7 3m-1.9 2l.7 3.3m-1.9 1.5l.7 3.6m-1.9 1.1l.7 3.9m-1.9 .6l.7 4.1m-1.9 .4l.7 4.2m-1.9 .2l.7 4.4m-1.9 .1l.7 4.3m-1.9 .1l.7 4.4m-1.9 .2l.7 4.3m-2 .4l.8 4.1m-2 .6l.7 3.9m-1.9 .8l.7 3.6m-1.9 1l.7 3.4m-1.9 1.1l.7 3m-1.9 1.1l.7 2.6m-1.9 1.1l.7 2.2m-1.9 .8l.7 1.9m-1.9 .4l.7 1.5m-1.9-.1l.7 1.1m-1.9-.7l.7 .8m-1.9-1.5l.7 .5m-1.9-2.3l.7 .3m-1.9-3.2l.7 .1m-1.9-4.1l.7 .1m-1.9-4.9l.7-.1m-1.9-5.5l.7-.1m-2-6.1l.8 0m-2-6.5l.8 .1m-2-6.6l.7 .2m-1.9-6.6l.7 .4m-1.9-6.3l.7 .6m-1.9-5.9l.7 .9m-1.9-5.2l.7 1.2m-1.9-4.4l.7 1.4m-1.9-3.4l.7 1.6m-1.9-2.3l.7 1.8m-1.9-1.2l.7 2m-1.9-.1l.7 2.1m-1.9 .8l.7 2.3m-1.9 1.7l.7 2.3m-1.9 2.4l.7 2.4m-1.9 2.9l.7 2.4m-1.9 3.2l.7 2.3m-1.9 3.3l.7 2.3m-2 3l.8 2.3m-2 2.6l.7 2.2m-1.9 2l.7 2.1m-1.9 1.2l.7 2m-1.9 .4l.7 1.9m-1.9-.5l.7 1.7m-1.9-1.4l.7 1.6m-1.9-2.4l.7 1.5m-1.9-3.1l.7 1.3m-1.9-3.8l.7 1.2m-1.9-4.4l.7 1.1m-1.9-4.7l.7 .9m-1.9-4.9l.7 .8m-1.9-4.9l.7 .6m-1.9-4.7l.7 .4m-1.9-4.4l.7 .2m-1.9-3.8l.7 0m-2-3.4l.8-.1m-2-2.8l.7-.3m-1.9-2.3l.7-.4m-1.9-1.8l.7-.5m-1.9-1.3l.7-.6m-1.9-1l.7-.6m-1.9-.7l.7-.7m-1.9-.6l.7-.6m-1.9-.6l.7-.4m-1.9-.8l.7-.2m-1.9-1l.7 0m-1.9-1.3l.7 .3m-1.9-1.5l.7 .7m-1.9-1.9l.7 1.2m-1.9-2.1l.7 1.6m-1.9-2.2l.7 2.1m-1.9-2.3l.7 2.6m-2-2.1l.8 3.1m-2-1.9l.8 3.6m-2-1.4l.7 4.1m-1.9-.9l.7 4.5m-1.9-.2l.7 4.9m-1.9 .5l.7 5.3m-1.9 1.3l.7 5.5m-1.9 2.2l.7 5.7m-1.9 3l.7 5.7m-1.9 3.7l.7 5.7m-1.9 4.2l.7 5.7m-1.9 4.6l.7 5.5m-1.9 4.7l.7 5.3m-1.9 4.6l.7 5"/><path class="s" d="M57.7 -131.9L57 -132.6M83 -79L82.3 -80.3M105.9 -126.2L105.2 -127.6M121.6 -63.7L120.9 -64.2"/></g>
<g transform="translate(321 232.5)"><path class="fgR" d="M36 -37.9l2.4-18.9 2.4-19.6 2.4-18.1 2.4-15.1 2.4-11.2 2.5-7.2 2.4-3.8 2.4-1.2 2.4 .3 2.4 1.1 2.4 1.6 2.4 2.1 2.4 3.1 2.5 4.4 2.4 6.1 2.4 7.7 2.4 8.7 2.4 8.6 2.4 7.4 2.4 4.6 2.4 .9 2.4-3.3 2.5-7.1 2.4-9.9 2.4-11 2.4-10 2.4-7.3 2.4-3 2.4 1.8 2.4 6.6 2.4 10.1 2.5 12.2 2.4 12.3 2.4 10.5 2.4 7.4 2.4 3.5 2.4-.3 2.4-3.8 2.4-6.2 2.5-7.7 2.4-8.5 2.4-8.8 2.4-9 2.4-9.5 2.4-10.2 2.4-11 2.4-11.6 2.4-11.3 2.5-9.6 2.4-6.3-.7-.1-2.5 5.6-2.4 9-2.4 10.5-2.4 10.9-2.4 10.4-2.4 9.7-2.4 9.2-2.4 8.9-2.4 9-2.5 8.9-2.4 8.5-2.4 7-2.4 4.6-2.4 1.1-2.4-3-2.4-7.1-2.4-10.6-2.4-12.5-2.5-12.6-2.4-10.7-2.4-7-2.4-2.3-2.4 2.8-2.4 7.1-2.4 10.1-2.4 11.1-2.5 10.1-2.4 7.3-2.4 3.5-2.4-.7-2.4-4.4-2.4-7.1-2.4-8.4-2.4-8.5-2.4-7.3-2.5-5.8-2.4-4.2-2.4-3-2.4-2.2-2.4-2-2.4-1.8-2.4-1.2-2.4 .2-2.4 2.7-2.5 6.3-2.4 10.5-2.4 14.7-2.4 18.1-2.4 20-2.4 19.6z"/><path class="r" d="M35.3 -42.5l1.2-9.6 1.2-10 1.2-10.1 1.2-9.9 1.2-9.4 1.2-8.7 1.2-7.9 1.2-6.8 1.2-5.8 1.2-4.7 1.2-3.6 1.3-2.7 1.2-1.7 1.2-1 1.2-.3 1.2 .1 1.2 .5 1.2 .7 1.2 .8 1.2 1 1.2 1 1.2 1 1.2 1 1.2 1.2 1.2 1.4 1.2 1.6 1.2 1.9 1.2 2.3 1.2 2.7 1.3 3.1 1.2 3.5 1.2 3.8 1.2 4.2 1.2 4.3 1.2 4.3 1.2 4.1 1.2 3.8 1.2 3.3 1.2 2.6 1.2 1.8 1.2 .9 1.2-.2 1.2-1.2 1.2-2.3 1.2-3.2 1.2-4.1 1.3-4.8 1.2-5.3 1.2-5.6 1.2-5.5 1.2-5.3 1.2-4.8 1.2-4 1.2-3.1 1.2-2 1.2-.8 1.2 .5 1.2 1.8 1.2 3 1.2 4 1.2 5 1.2 5.7 1.2 6.2 1.3 6.4 1.2 6.4 1.2 6.1 1.2 5.6 1.2 5 1.2 4 1.2 3.1 1.2 2 1.2 1 1.2-.1 1.2-1 1.2-1.9 1.2-2.7 1.2-3.3 1.2-3.7 1.2-4.1 1.2-4.4 1.2-4.4 1.3-4.5 1.2-4.5 1.2-4.5 1.2-4.5 1.2-4.4 1.2-4.6 1.2-4.6 1.2-4.7 1.2-5 1.2-5.1 1.2-5.3 1.2-5.4 1.2-5.5 1.2-5.4 1.2-5.1 1.2-4.8 1.2-4.2 1.3-3.3 1.2-2.3"/><path class="c" d="M155.9 -177.5m0 0l.7 .1m-1.9 2.2l.7 .4m-2 2.9l.8 .8m-2 3.4l.7 1.1m-1.9 3.7l.7 1.4m-1.9 3.7l.7 1.8m-1.9 3.6l.7 2.2m-1.9 3.3l.7 2.5m-1.9 2.9l.7 2.9m-1.9 2.4l.7 3.2m-1.9 1.9l.7 3.5m-1.9 1.5l.7 3.7m-1.9 1l.7 4m-1.9 .6l.7 4.2m-1.9 .4l.7 4.3m-1.9 .1l.7 4.4m-1.9 .1l.7 4.4m-1.9 .1l.7 4.3m-1.9 .2l.7 4.2m-2 .3l.8 4m-2 .4l.8 3.8m-2 .6l.7 3.4m-1.9 .7l.7 3m-1.9 .7l.7 2.7m-1.9 .6l.7 2.2m-1.9 .5l.7 1.8m-1.9 .1l.7 1.4m-1.9-.4l.7 1m-1.9-.9l.7 .6m-1.9-1.6l.7 .4m-1.9-2.4l.7 .1m-1.9-3.2l.7-.1m-1.9-3.9l.7-.2m-1.9-4.8l.7-.2m-1.9-5.4l.7-.1m-1.9-6l.7-.1m-1.9-6.3l.7 .1m-2-6.5l.8 .3m-2-6.5l.7 .5m-1.9-6.2l.7 .8m-1.9-5.8l.7 1.1m-1.9-5.1l.7 1.3m-1.9-4.3l.7 1.5m-1.9-3.3l.7 1.8m-1.9-2.3l.7 2m-1.9-1.2l.7 2.1m-1.9-.1l.7 2.2m-1.9 .9l.7 2.3m-1.9 1.7l.7 2.4m-1.9 2.4l.7 2.4m-1.9 2.9l.7 2.3m-1.9 3.2l.7 2.3m-1.9 3.3l.7 2.2m-1.9 3.1l.7 2.1m-2 2.7l.8 2m-2 2.1l.7 1.9m-1.9 1.3l.7 1.8m-1.9 .5l.7 1.7m-1.9-.5l.7 1.6m-1.9-1.4l.7 1.5m-1.9-2.4l.7 1.4m-1.9-3.2l.7 1.3m-1.9-3.9l.7 1.2m-1.9-4.5l.7 1.1m-1.9-4.9l.7 .9m-1.9-5l.7 .8m-1.9-5.1l.7 .7m-1.9-5l.7 .5m-1.9-4.7l.7 .5m-1.9-4.3l.7 .2m-1.9-3.7l.7 .1m-2-3.2l.8-.1m-2-2.6l.8-.2m-2-2.1l.7-.3m-1.9-1.6l.7-.4m-1.9-1.2l.7-.5m-1.9-.9l.7-.5m-1.9-.7l.7-.4m-1.9-.6l.7-.4m-1.9-.6l.7-.2m-1.9-.8l.7 0m-1.9-1l.7 .4m-1.9-1.2l.7 .7m-1.9-1.4l.7 1.1m-1.9-1.6l.7 1.6m-1.9-1.7l.7 2m-1.9-1.7l.7 2.6m-1.9-1.6l.7 3.1m-1.9-1.4l.7 3.7m-2-1l.8 4.1m-2-.5l.7 4.6m-1.9 .1l.7 5m-1.9 .8l.7 5.3m-1.9 1.5l.7 5.6m-1.9 2.3l.7 5.7m-1.9 3l.7 5.8m-1.9 3.6l.7 5.7m-1.9 4.2l.7 5.6m-1.9 4.5l.7 5.3m-1.9 4.7l.7 5m-1.9 4.6l.7 4.6"/><path class="s" d="M58.9 -132.2L58.2 -132.6M83 -79.2L82.3 -80.5M105.9 -126.2L105.2 -127.7M122.8 -63.6L122.1 -64.2M57 -133.4L58.2 -132.6M120.9 -65.2L122.1 -64.2"/></g>
<g transform="translate(321.7 234)"><path class="fgR" d="M36 -35.1l2.4-18 2.4-19.1 2.4-18.1 2.4-15.5 2.5-11.9 2.4-8.1 2.4-4.9 2.4-2.3 2.4-.5 2.4 .4 2.4 1.3 2.4 2.1 2.4 3.1 2.5 4.7 2.4 6.4 2.4 8 2.4 8.9 2.4 8.8 2.4 7.5 2.4 4.7 2.4 1 2.5-3.1 2.4-6.8 2.4-9.6 2.4-10.8 2.4-9.9 2.4-7.3 2.4-3.3 2.4 1.4 2.4 6 2.5 9.6 2.4 11.6 2.4 12 2.4 10.4 2.4 7.7 2.4 4.1 2.4 .5 2.4-2.9 2.4-5.3 2.5-7.1 2.4-8 2.4-8.5 2.4-9.2 2.4-9.8 2.4-10.8 2.4-11.7 2.4-12.2 2.5-12 2.4-10.2 2.4-6.9-.7-.2-2.4 6.3-2.5 9.6-2.4 11.3-2.4 11.6-2.4 11-2.4 10.2-2.4 9.5-2.4 9-2.4 8.8-2.4 8.5-2.5 7.7-2.4 6.2-2.4 3.8-2.4 .3-2.4-3.5-2.4-7.4-2.4-10.5-2.4-12.3-2.5-12.2-2.4-10.1-2.4-6.6-2.4-1.8-2.4 3-2.4 7.3-2.4 10-2.4 11-2.4 9.9-2.5 7.1-2.4 3.3-2.4-.9-2.4-4.6-2.4-7.4-2.4-8.6-2.4-8.7-2.4-7.7-2.4-6.1-2.5-4.4-2.4-3.1-2.4-2.1-2.4-1.6-2.4-1.1-2.4-.3-2.4 1.2-2.4 3.8-2.5 7.2-2.4 11.2-2.4 15.1-2.4 18.1-2.4 19.6-2.4 18.9z"/><path class="r" d="M35.3 -39.4l1.2-9.2 1.2-9.7 1.2-9.8 1.2-9.8 1.2-9.3 1.2-8.8 1.2-8 1.2-7.1 1.2-6.1 1.2-5.1 1.3-4.1 1.2-3.1 1.2-2.3 1.2-1.5 1.2-.9 1.2-.3 1.2 0 1.2 .3 1.2 .5 1.2 .6 1.2 .8 1.2 .8 1.2 1 1.2 1.1 1.2 1.4 1.2 1.7 1.2 2 1.3 2.4 1.2 2.8 1.2 3.3 1.2 3.6 1.2 4.1 1.2 4.2 1.2 4.5 1.2 4.4 1.2 4.2 1.2 4 1.2 3.4 1.2 2.7 1.2 1.9 1.2 1 1.2-.1 1.2-1.1 1.2-2.2 1.2-3.1 1.3-4 1.2-4.7 1.2-5.2 1.2-5.5 1.2-5.5 1.2-5.2 1.2-4.8 1.2-4.1 1.2-3.2 1.2-2.1 1.2-.9 1.2 .3 1.2 1.5 1.2 2.8 1.2 3.8 1.2 4.7 1.2 5.4 1.3 6 1.2 6.2 1.2 6.2 1.2 6.1 1.2 5.5 1.2 5 1.2 4.1 1.2 3.3 1.2 2.3 1.2 1.2 1.2 .3 1.2-.6 1.2-1.5 1.2-2.3 1.2-2.8 1.2-3.4 1.2-3.7 1.3-4 1.2-4.2 1.2-4.3 1.2-4.4 1.2-4.4 1.2-4.5 1.2-4.5 1.2-4.7 1.2-4.8 1.2-5 1.2-5.2 1.2-5.4 1.2-5.6 1.2-5.8 1.2-5.8 1.2-5.8 1.2-5.5 1.2-5.1 1.3-4.5 1.2-3.7 1.2-2.6"/><path class="c" d="M155.9 -178.9m0 0l.7 .2m-1.9 2.4l.7 .5m-1.9 3.2l.7 .8m-2 3.7l.8 1.1m-2 4l.8 1.4m-2 4.1l.7 1.8m-1.9 4l.7 2.1m-1.9 3.7l.7 2.4m-1.9 3.4l.7 2.7m-1.9 2.9l.7 3.1m-1.9 2.3l.7 3.4m-1.9 1.8l.7 3.7m-1.9 1.3l.7 4m-1.9 .8l.7 4.2m-1.9 .5l.7 4.3m-1.9 .2l.7 4.5m-1.9 0l.7 4.5m-1.9-.1l.7 4.4m-1.9 0l.7 4.2m-1.9 .1l.7 4m-1.9 .2l.7 3.7m-2 .3l.8 3.4m-2 .3l.7 3.1m-1.9 .3l.7 2.6m-1.9 .2l.7 2.2m-1.9 .1l.7 1.7m-1.9-.2l.7 1.3m-1.9-.7l.7 .9m-1.9-1.2l.7 .5m-1.9-1.7l.7 .1m-1.9-2.4l.7-.1m-1.9-3.2l.7-.2m-1.9-3.9l.7-.4m-1.9-4.6l.7-.3m-1.9-5.2l.7-.3m-1.9-5.8l.7-.1m-1.9-6.1l.7 0m-1.9-6.2l.7 .3m-2-6.3l.8 .6m-2-6l.7 .8m-1.9-5.5l.7 1.1m-1.9-4.9l.7 1.4m-1.9-4.2l.7 1.7m-1.9-3.2l.7 1.9m-1.9-2.2l.7 2.1m-1.9-1.2l.7 2.3m-1.9-.2l.7 2.4m-1.9 .8l.7 2.4m-1.9 1.7l.7 2.4m-1.9 2.4l.7 2.4m-1.9 2.8l.7 2.3m-1.9 3.2l.7 2.2m-1.9 3.3l.7 2.1m-1.9 3.1l.7 1.9m-1.9 2.8l.7 1.8m-2 2.2l.8 1.6m-2 1.5l.8 1.5m-2 .7l.7 1.4m-1.9-.3l.7 1.3m-1.9-1.2l.7 1.2m-1.9-2.2l.7 1.2m-1.9-3.1l.7 1.1m-1.9-3.8l.7 1.1m-1.9-4.5l.7 1m-1.9-5l.7 1m-1.9-5.2l.7 .9m-1.9-5.3l.7 .8m-1.9-5.3l.7 .8m-1.9-5l.7 .6m-1.9-4.7l.7 .6m-1.9-4.2l.7 .3m-1.9-3.6l.7 .2m-1.9-3l.7 0m-2-2.4l.8-.1m-2-1.9l.7-.3m-1.9-1.4l.7-.3m-1.9-1.1l.7-.3m-1.9-.8l.7-.4m-1.9-.6l.7-.3m-1.9-.5l.7-.2m-1.9-.6l.7 0m-1.9-.6l.7 .3m-1.9-.8l.7 .7m-1.9-1l.7 1.1m-1.9-1.1l.7 1.5m-1.9-1.2l.7 2.1m-1.9-1.2l.7 2.6m-1.9-1.1l.7 3.2m-1.9-.9l.7 3.7m-1.9-.6l.7 4.2m-2-.1l.8 4.6m-2 .5l.8 5m-2 1.1l.7 5.3m-1.9 1.8l.7 5.5m-1.9 2.5l.7 5.7m-1.9 3.1l.7 5.7m-1.9 3.6l.7 5.7m-1.9 4.1l.7 5.4m-1.9 4.4l.7 5.2m-1.9 4.5l.7 4.8m-1.9 4.4l.7 4.3"/><path class="s" d="M58.9 -133.4L58.2 -133.7M83 -79.6L82.3 -80.7M107.1 -123.5L106.4 -124.9M122.8 -64.6L122.1 -65.1M105.2 -127.7L106.4 -124.9"/></g>
<g transform="translate(322.4 235.5)"><path class="fgR" d="M36 -32.5l2.4-17.1 2.4-18.6 2.4-17.9 2.5-15.8 2.4-12.6 2.4-9.1 2.4-6 2.4-3.3 2.4-1.5 2.4-.1 2.4 1 2.4 2 2.5 3.4 2.4 5 2.4 6.7 2.4 8.3 2.4 9 2.4 8.9 2.4 7.4 2.4 4.7 2.4 1.1 2.5-2.9 2.4-6.6 2.4-9.2 2.4-10.4 2.4-9.7 2.4-7.3 2.4-3.4 2.4 1 2.5 5.3 2.4 8.9 2.4 11.1 2.4 11.5 2.4 10.3 2.4 8 2.4 4.7 2.4 1.2 2.4-1.9 2.5-4.4 2.4-6.2 2.4-7.5 2.4-8.5 2.4-9.2 2.4-10.3 2.4-11.3 2.4-12.4 2.4-12.9 2.5-12.5 2.4-10.8 2.4-7.3-.7-.5-2.4 6.9-2.4 10.2-2.5 12-2.4 12.2-2.4 11.7-2.4 10.8-2.4 9.8-2.4 9.2-2.4 8.5-2.4 8-2.5 7.1-2.4 5.3-2.4 2.9-2.4-.5-2.4-4.1-2.4-7.7-2.4-10.4-2.4-12-2.4-11.6-2.5-9.6-2.4-6-2.4-1.4-2.4 3.3-2.4 7.3-2.4 9.9-2.4 10.8-2.4 9.6-2.4 6.8-2.5 3.1-2.4-1-2.4-4.7-2.4-7.5-2.4-8.8-2.4-8.9-2.4-8-2.4-6.4-2.5-4.7-2.4-3.1-2.4-2.1-2.4-1.3-2.4-.4-2.4 .5-2.4 2.3-2.4 4.9-2.4 8.1-2.5 11.9-2.4 15.5-2.4 18.1-2.4 19.1-2.4 18z"/><path class="r" d="M35.3 -36.6l1.2-8.7 1.2-9.3 1.2-9.6 1.2-9.5 1.2-9.3 1.2-8.8 1.2-8.2 1.2-7.3 1.3-6.4 1.2-5.5 1.2-4.5 1.2-3.6 1.2-2.8 1.2-2.1 1.2-1.4 1.2-.9 1.2-.4 1.2-.1 1.2 .1 1.2 .3 1.2 .6 1.2 .7 1.2 .9 1.2 1.2 1.2 1.4 1.2 1.7 1.3 2.2 1.2 2.5 1.2 3 1.2 3.4 1.2 3.9 1.2 4.1 1.2 4.4 1.2 4.5 1.2 4.5 1.2 4.3 1.2 4 1.2 3.5 1.2 2.7 1.2 2 1.2 1 1.2 0 1.2-1 1.3-2.1 1.2-3 1.2-3.8 1.2-4.6 1.2-5 1.2-5.4 1.2-5.4 1.2-5.1 1.2-4.8 1.2-4.1 1.2-3.2 1.2-2.2 1.2-1.1 1.2 .1 1.2 1.3 1.2 2.5 1.2 3.5 1.2 4.4 1.3 5.2 1.2 5.7 1.2 5.9 1.2 6.1 1.2 5.9 1.2 5.5 1.2 4.9 1.2 4.3 1.2 3.4 1.2 2.5 1.2 1.6 1.2 .7 1.2-.2 1.2-1.1 1.2-1.8 1.2-2.4 1.2-2.9 1.3-3.4 1.2-3.7 1.2-3.9 1.2-4.1 1.2-4.2 1.2-4.3 1.2-4.5 1.2-4.7 1.2-4.8 1.2-5 1.2-5.3 1.2-5.5 1.2-5.7 1.2-6 1.2-6.1 1.2-6.1 1.2-6.1 1.3-5.9 1.2-5.4 1.2-4.8 1.2-4 1.2-2.9"/><path class="c" d="M155.9 -180.2m0 0l.7 .5m-1.9 2.4l.7 .7m-1.9 3.3l.7 .9m-1.9 3.9l.7 1.2m-1.9 4.2l.7 1.5m-2 4.4l.8 1.7m-2 4.4l.7 2m-1.9 4.1l.7 2.4m-1.9 3.7l.7 2.7m-1.9 3.3l.7 3m-1.9 2.7l.7 3.4m-1.9 2.1l.7 3.7m-1.9 1.6l.7 3.9m-1.9 1.1l.7 4.2m-1.9 .6l.7 4.4m-1.9 .3l.7 4.4m-1.9 .1l.7 4.4m-1.9-.1l.7 4.5m-1.9-.3l.7 4.4m-1.9-.3l.7 4.1m-1.9-.2l.7 3.9m-1.9-.2l.7 3.5m-2-.1l.8 3m-2-.1l.7 2.6m-1.9-.2l.7 2.1m-1.9-.3l.7 1.6m-1.9-.5l.7 1.1m-1.9-.9l.7 .7m-1.9-1.4l.7 .4m-1.9-2l.7 0m-1.9-2.5l.7-.2m-1.9-3.2l.7-.4m-1.9-3.9l.7-.5m-1.9-4.4l.7-.5m-1.9-5l.7-.4m-1.9-5.5l.7-.2m-1.9-5.9l.7 .1m-1.9-6l.7 .3m-1.9-6l.7 .6m-2-5.8l.8 1m-2-5.4l.8 1.3m-2-4.8l.7 1.6m-1.9-4.1l.7 2m-1.9-3.3l.7 2.2m-1.9-2.3l.7 2.4m-1.9-1.3l.7 2.5m-1.9-.3l.7 2.5m-1.9 .7l.7 2.6m-1.9 1.5l.7 2.5m-1.9 2.3l.7 2.3m-1.9 2.8l.7 2.3m-1.9 3.1l.7 2.1m-1.9 3.3l.7 1.9m-1.9 3.1l.7 1.8m-1.9 2.8l.7 1.5m-1.9 2.3l.7 1.4m-1.9 1.6l.7 1.3m-2 .8l.8 1.2m-2-.2l.7 1.1m-1.9-1.1l.7 1m-1.9-2l.7 1m-1.9-3l.7 1.1m-1.9-3.8l.7 1m-1.9-4.5l.7 1.1m-1.9-5.1l.7 1.1m-1.9-5.4l.7 1.1m-1.9-5.6l.7 1m-1.9-5.5l.7 .9m-1.9-5.3l.7 .9m-1.9-5l.7 .7m-1.9-4.6l.7 .6m-1.9-4l.7 .5m-1.9-3.5l.7 .3m-1.9-2.8l.7 .1m-2-2.3l.8 0m-2-1.7l.8-.2m-2-1.2l.7-.3m-1.9-.9l.7-.3m-1.9-.6l.7-.2m-1.9-.5l.7-.2m-1.9-.4l.7 .1m-1.9-.4l.7 .3m-1.9-.4l.7 .6m-1.9-.5l.7 1.1m-1.9-.7l.7 1.6m-1.9-.7l.7 2.1m-1.9-.7l.7 2.6m-1.9-.5l.7 3.2m-1.9-.4l.7 3.7m-1.9-.1l.7 4.2m-1.9 .3l.7 4.7m-1.9 .8l.7 5.1m-2 1.3l.8 5.4m-2 1.9l.7 5.7m-1.9 2.5l.7 5.7m-1.9 3.1l.7 5.7m-1.9 3.6l.7 5.5m-1.9 4l.7 5.4m-1.9 4.2l.7 5m-1.9 4.3l.7 4.6m-1.9 4.1l.7 4.1"/><path class="s" d="M60.1 -134.5L59.4 -134.6M84.2 -78.1L83.5 -79.1M107.1 -123.4L106.4 -125M122.8 -65.7L122.1 -66.1M58.2 -134.9L59.4 -134.6M82.3 -81.1L83.5 -79.1"/></g>
<g transform="translate(323.1 237)"><path class="fgR" d="M36 -30.2l2.4-16.1 2.4-17.9 2.4-17.7 2.5-16 2.4-13.3 2.4-10.1 2.4-7.1 2.4-4.4 2.4-2.4 2.4-.7 2.4 .7 2.5 2.1 2.4 3.6 2.4 5.4 2.4 7.1 2.4 8.4 2.4 9.1 2.4 8.9 2.4 7.3 2.4 4.6 2.5 1.1 2.4-2.7 2.4-6.3 2.4-8.8 2.4-10 2.4-9.4 2.4-7.1 2.4-3.6 2.4 .5 2.5 4.7 2.4 8.2 2.4 10.4 2.4 11 2.4 10.2 2.4 8.1 2.4 5.3 2.4 2.2 2.5-.9 2.4-3.4 2.4-5.5 2.4-7 2.4-8.3 2.4-9.4 2.4-10.7 2.4-12 2.4-13 2.5-13.5 2.4-13.1 2.4-11.1 2.4-7.7-.7-.7-2.4 7.3-2.4 10.8-2.5 12.5-2.4 12.9-2.4 12.4-2.4 11.3-2.4 10.3-2.4 9.2-2.4 8.5-2.4 7.5-2.4 6.2-2.5 4.4-2.4 1.9-2.4-1.2-2.4-4.7-2.4-8-2.4-10.3-2.4-11.5-2.4-11.1-2.4-8.9-2.5-5.3-2.4-1-2.4 3.4-2.4 7.3-2.4 9.7-2.4 10.4-2.4 9.2-2.4 6.6-2.5 2.9-2.4-1.1-2.4-4.7-2.4-7.4-2.4-8.9-2.4-9-2.4-8.3-2.4-6.7-2.4-5-2.5-3.4-2.4-2-2.4-1-2.4 .1-2.4 1.5-2.4 3.3-2.4 6-2.4 9.1-2.4 12.6-2.5 15.8-2.4 17.9-2.4 18.6-2.4 17.1z"/><path class="r" d="M35.3 -34l1.2-8.2 1.2-8.9 1.2-9.2 1.2-9.4 1.2-9.1 1.2-8.8 1.2-8.2 1.3-7.6 1.2-6.7 1.2-5.9 1.2-5 1.2-4.1 1.2-3.3 1.2-2.7 1.2-1.9 1.2-1.4 1.2-.9 1.2-.6 1.2-.2 1.2 .1 1.2 .3 1.2 .7 1.2 .8 1.2 1.2 1.3 1.5 1.2 1.9 1.2 2.3 1.2 2.7 1.2 3.2 1.2 3.5 1.2 4 1.2 4.3 1.2 4.4 1.2 4.6 1.2 4.6 1.2 4.3 1.2 4 1.2 3.4 1.2 2.8 1.2 1.9 1.2 1 1.2 .1 1.3-.9 1.2-2 1.2-2.9 1.2-3.7 1.2-4.3 1.2-4.9 1.2-5.2 1.2-5.2 1.2-5.1 1.2-4.6 1.2-4 1.2-3.3 1.2-2.2 1.2-1.2 1.2-.1 1.2 1.1 1.2 2.1 1.3 3.2 1.2 4.1 1.2 4.8 1.2 5.4 1.2 5.7 1.2 5.8 1.2 5.7 1.2 5.4 1.2 4.9 1.2 4.4 1.2 3.6 1.2 2.7 1.2 2 1.2 1 1.2 .2 1.2-.6 1.2-1.3 1.2-1.9 1.3-2.5 1.2-2.9 1.2-3.3 1.2-3.7 1.2-3.8 1.2-4.1 1.2-4.4 1.2-4.5 1.2-4.7 1.2-5 1.2-5.3 1.2-5.5 1.2-5.8 1.2-6.1 1.2-6.3 1.2-6.4 1.2-6.5 1.3-6.4 1.2-6.1 1.2-5.7 1.2-5.1 1.2-4.2 1.2-3.1"/><path class="c" d="M155.9 -181.2m0 0l.7 .7m-1.9 2.4l.7 .9m-1.9 3.3l.7 1.1m-1.9 4l.7 1.2m-1.9 4.5l.7 1.4m-1.9 4.7l.7 1.7m-2 4.7l.8 2m-2 4.5l.7 2.2m-1.9 4.2l.7 2.6m-1.9 3.7l.7 2.9m-1.9 3.2l.7 3.2m-1.9 2.6l.7 3.5m-1.9 2l.7 3.9m-1.9 1.4l.7 4.1m-1.9 .9l.7 4.3m-1.9 .4l.7 4.5m-1.9 0l.7 4.5m-1.9-.1l.7 4.4m-1.9-.3l.7 4.3m-1.9-.5l.7 4.2m-1.9-.5l.7 3.8m-1.9-.5l.7 3.5m-1.9-.6l.7 3.1m-2-.6l.8 2.6m-2-.7l.8 2.1m-2-.8l.7 1.6m-1.9-1l.7 1.1m-1.9-1.3l.7 .6m-1.9-1.6l.7 .1m-1.9-2.1l.7-.1m-1.9-2.6l.7-.5m-1.9-3.1l.7-.6m-1.9-3.8l.7-.6m-1.9-4.3l.7-.6m-1.9-4.8l.7-.5m-1.9-5.2l.7-.3m-1.9-5.5l.7 0m-1.9-5.7l.7 .3m-1.9-5.7l.7 .7m-1.9-5.5l.7 1.1m-1.9-5.2l.7 1.4m-2-4.6l.8 1.8m-2-3.9l.7 2m-1.9-3.1l.7 2.3m-1.9-2.2l.7 2.5m-1.9-1.3l.7 2.6m-1.9-.4l.7 2.7m-1.9 .6l.7 2.6m-1.9 1.4l.7 2.5m-1.9 2.1l.7 2.5m-1.9 2.6l.7 2.2m-1.9 3l.7 2m-1.9 3.2l.7 1.8m-1.9 3.1l.7 1.5m-1.9 2.8l.7 1.4m-1.9 2.3l.7 1.2m-1.9 1.7l.7 1.1m-1.9 .9l.7 .9m-2 0l.8 .9m-2-1l.8 .9m-2-1.9l.7 .9m-1.9-2.8l.7 .9m-1.9-3.7l.7 1m-1.9-4.4l.7 1m-1.9-5l.7 1.1m-1.9-5.4l.7 1.1m-1.9-5.7l.7 1.1m-1.9-5.7l.7 1.1m-1.9-5.5l.7 1m-1.9-5.3l.7 .9m-1.9-4.9l.7 .9m-1.9-4.4l.7 .6m-1.9-3.8l.7 .5m-1.9-3.2l.7 .3m-1.9-2.6l.7 .1m-1.9-2l.7 0m-2-1.5l.8-.1m-2-1.1l.7-.2m-1.9-.6l.7-.2m-1.9-.5l.7 0m-1.9-.3l.7 .1m-1.9-.2l.7 .4m-1.9-.2l.7 .7m-1.9-.1l.7 1m-1.9-.1l.7 1.6m-1.9-.2l.7 2.1m-1.9-.2l.7 2.7m-1.9 0l.7 3.2m-1.9 .1l.7 3.8m-1.9 .3l.7 4.3m-1.9 .7l.7 4.8m-1.9 1.1l.7 5.2m-1.9 1.5l.7 5.5m-2 2.1l.8 5.6m-2 2.6l.7 5.7m-1.9 3.1l.7 5.6m-1.9 3.5l.7 5.5m-1.9 3.9l.7 5.1m-1.9 4.1l.7 4.8m-1.9 4.1l.7 4.3m-1.9 3.9l.7 3.8"/><path class="s" d="M60.1 -135.9L59.4 -136M84.2 -78.7L83.5 -79.6M107.2 -123.1L106.4 -124.9M124 -65.6L123.3 -66.2M122.1 -67.2L123.3 -66.2"/></g>
<g transform="translate(323.8 238.5)"><path class="fgR" d="M36 -28.2l2.4-15 2.4-17.1 2.5-17.4 2.4-16.3 2.4-13.9 2.4-11.1 2.4-8.2 2.4-5.6 2.4-3.2 2.4-1.3 2.4 .5 2.5 2.2 2.4 3.9 2.4 5.8 2.4 7.4 2.4 8.6 2.4 9.2 2.4 8.7 2.4 7.1 2.5 4.4 2.4 1.1 2.4-2.6 2.4-5.9 2.4-8.3 2.4-9.5 2.4-9 2.4-6.9 2.4-3.8 2.5 .1 2.4 4.1 2.4 7.3 2.4 9.6 2.4 10.5 2.4 10 2.4 8.4 2.4 5.9 2.4 3 2.5 .2 2.4-2.4 2.4-4.6 2.4-6.5 2.4-8.1 2.4-9.7 2.4-11.2 2.4-12.6 2.5-13.7 2.4-14.1 2.4-13.5 2.4-11.5 2.4-8-.7-.8-2.4 7.7-2.4 11.1-2.4 13.1-2.5 13.5-2.4 13-2.4 12-2.4 10.7-2.4 9.4-2.4 8.3-2.4 7-2.4 5.5-2.4 3.4-2.5 .9-2.4-2.2-2.4-5.3-2.4-8.1-2.4-10.2-2.4-11-2.4-10.4-2.4-8.2-2.5-4.7-2.4-.5-2.4 3.6-2.4 7.1-2.4 9.4-2.4 10-2.4 8.8-2.4 6.3-2.4 2.7-2.5-1.1-2.4-4.6-2.4-7.3-2.4-8.9-2.4-9.1-2.4-8.4-2.4-7.1-2.4-5.4-2.4-3.6-2.5-2.1-2.4-.7-2.4 .7-2.4 2.4-2.4 4.4-2.4 7.1-2.4 10.1-2.4 13.3-2.5 16-2.4 17.7-2.4 17.9-2.4 16.1z"/><path class="r" d="M35.3 -31.7l1.2-7.7 1.2-8.4 1.2-8.9 1.2-9 1.2-9 1.2-8.7 1.3-8.3 1.2-7.7 1.2-7 1.2-6.3 1.2-5.5 1.2-4.6 1.2-3.9 1.2-3.2 1.2-2.5 1.2-1.9 1.2-1.5 1.2-.9 1.2-.5 1.2-.2 1.2 .2 1.2 .5 1.2 .8 1.3 1.3 1.2 1.6 1.2 2 1.2 2.5 1.2 2.9 1.2 3.3 1.2 3.8 1.2 4 1.2 4.4 1.2 4.5 1.2 4.6 1.2 4.6 1.2 4.3 1.2 3.9 1.2 3.4 1.2 2.7 1.2 1.9 1.3 1 1.2 .1 1.2-.9 1.2-1.8 1.2-2.8 1.2-3.5 1.2-4.2 1.2-4.6 1.2-5 1.2-5 1.2-4.8 1.2-4.6 1.2-3.9 1.2-3.2 1.2-2.3 1.2-1.3 1.2-.3 1.2 .8 1.3 1.9 1.2 2.8 1.2 3.8 1.2 4.4 1.2 5 1.2 5.4 1.2 5.5 1.2 5.5 1.2 5.3 1.2 4.9 1.2 4.4 1.2 3.7 1.2 3.1 1.2 2.2 1.2 1.5 1.2 .7 1.2-.1 1.3-.8 1.2-1.4 1.2-2 1.2-2.5 1.2-3 1.2-3.3 1.2-3.7 1.2-4 1.2-4.3 1.2-4.5 1.2-4.9 1.2-5.2 1.2-5.5 1.2-5.9 1.2-6.1 1.2-6.4 1.2-6.6 1.2-6.8 1.3-6.7 1.2-6.7 1.2-6.4 1.2-5.9 1.2-5.2 1.2-4.4 1.2-3.3"/><path class="c" d="M155.9 -182m0 0l.7 .8m-1.9 2.5l.7 1m-1.9 3.4l.7 1.1m-1.9 4.1l.7 1.3m-1.9 4.6l.7 1.5m-1.9 4.9l.7 1.7m-1.9 5l.7 1.9m-2 4.8l.8 2.3m-2 4.5l.8 2.5m-2 4.1l.7 2.9m-1.9 3.5l.7 3.2m-1.9 2.9l.7 3.6m-1.9 2.3l.7 3.8m-1.9 1.7l.7 4.1m-1.9 1.1l.7 4.3m-1.9 .6l.7 4.4m-1.9 .1l.7 4.6m-1.9-.3l.7 4.5m-1.9-.5l.7 4.4m-1.9-.7l.7 4.2m-1.9-.9l.7 3.9m-1.9-.9l.7 3.4m-1.9-.9l.7 3m-1.9-1l.7 2.5m-1.9-1.1l.7 2m-2-1.2l.8 1.5m-2-1.4l.7 .9m-1.9-1.6l.7 .5m-1.9-2l.7 .1m-1.9-2.3l.7-.3m-1.9-2.8l.7-.5m-1.9-3.2l.7-.7m-1.9-3.7l.7-.8m-1.9-4.1l.7-.7m-1.9-4.6l.7-.6m-1.9-4.9l.7-.3m-1.9-5.2l.7-.1m-1.9-5.3l.7 .3m-1.9-5.3l.7 .7m-1.9-5.1l.7 1.1m-1.9-4.9l.7 1.6m-1.9-4.4l.7 1.9m-2-3.8l.8 2.2m-2-3l.8 2.5m-2-2.2l.7 2.6m-1.9-1.3l.7 2.7m-1.9-.4l.7 2.8m-1.9 .4l.7 2.7m-1.9 1.2l.7 2.6m-1.9 2l.7 2.4m-1.9 2.4l.7 2.2m-1.9 2.8l.7 2m-1.9 3l.7 1.7m-1.9 2.9l.7 1.5m-1.9 2.7l.7 1.2m-1.9 2.3l.7 1m-1.9 1.8l.7 .8m-1.9 1l.7 .8m-1.9 .1l.7 .7m-1.9-.8l.7 .7m-2-1.7l.8 .7m-2-2.6l.7 .8m-1.9-3.5l.7 .9m-1.9-4.3l.7 1m-1.9-4.9l.7 1.1m-1.9-5.4l.7 1.2m-1.9-5.8l.7 1.3m-1.9-5.9l.7 1.3m-1.9-5.8l.7 1.2m-1.9-5.6l.7 1.2m-1.9-5.2l.7 1m-1.9-4.8l.7 .9m-1.9-4.2l.7 .7m-1.9-3.6l.7 .5m-1.9-3l.7 .3m-1.9-2.3l.7 .1m-1.9-1.7l.7 0m-2-1.3l.8 0m-2-.8l.7-.1m-1.9-.4l.7-.1m-1.9-.1l.7 .1m-1.9 .1l.7 .3m-1.9 .2l.7 .7m-1.9 .2l.7 1.2m-1.9 .3l.7 1.5m-1.9 .4l.7 2.1m-1.9 .4l.7 2.7m-1.9 .5l.7 3.2m-1.9 .7l.7 3.8m-1.9 .8l.7 4.4m-1.9 1.1l.7 4.8m-1.9 1.5l.7 5.1m-1.9 1.9l.7 5.4m-1.9 2.3l.7 5.6m-2 2.7l.8 5.7m-2 3l.8 5.6m-2 3.4l.7 5.4m-1.9 3.6l.7 5.1m-1.9 3.8l.7 4.6m-1.9 3.8l.7 4.1m-1.9 3.6l.7 3.5"/><path class="s" d="M60.1 -137.3L59.4 -137.4M84.3 -79.5L83.5 -80.2M108.4 -120.2L107.7 -121.8M124 -66.6L123.3 -67.1M106.5 -124.6L107.7 -121.8"/></g>
<g transform="translate(324.5 240)"><path class="fgR" d="M36 -26.5l2.4-13.8 2.5-16.3 2.4-17 2.4-16.4 2.4-14.6 2.4-12 2.4-9.4 2.4-6.6 2.4-4.2 2.4-1.8 2.5 .3 2.4 2.3 2.4 4.3 2.4 6.2 2.4 7.7 2.4 8.8 2.4 9.1 2.4 8.5 2.4 6.8 2.5 4.2 2.4 1 2.4-2.4 2.4-5.5 2.4-7.9 2.4-8.8 2.4-8.5 2.4-6.8 2.5-3.8 2.4-.3 2.4 3.3 2.4 6.5 2.4 8.8 2.4 9.9 2.4 9.8 2.4 8.5 2.4 6.5 2.5 4 2.4 1.2 2.4-1.3 2.4-3.8 2.4-5.9 2.4-8 2.4-9.9 2.4-11.7 2.4-13.3 2.5-14.3 2.4-14.6 2.4-13.9 2.4-11.8 2.4-8.2-.7-1.1-2.4 8-2.4 11.5-2.4 13.5-2.4 14.1-2.5 13.7-2.4 12.6-2.4 11.2-2.4 9.7-2.4 8.1-2.4 6.5-2.4 4.6-2.4 2.4-2.5-.2-2.4-3-2.4-5.9-2.4-8.4-2.4-10-2.4-10.5-2.4-9.6-2.4-7.3-2.4-4.1-2.5-.1-2.4 3.8-2.4 6.9-2.4 9-2.4 9.5-2.4 8.3-2.4 5.9-2.4 2.6-2.4-1.1-2.5-4.4-2.4-7.1-2.4-8.7-2.4-9.2-2.4-8.6-2.4-7.4-2.4-5.8-2.4-3.9-2.5-2.2-2.4-.5-2.4 1.3-2.4 3.2-2.4 5.6-2.4 8.2-2.4 11.1-2.4 13.9-2.4 16.3-2.5 17.4-2.4 17.1-2.4 15z"/><path class="r" d="M35.3 -29.7l1.2-7.1 1.2-7.9 1.2-8.4 1.2-8.7 1.3-8.8 1.2-8.6 1.2-8.4 1.2-7.9 1.2-7.3 1.2-6.6 1.2-5.9 1.2-5.2 1.2-4.5 1.2-3.7 1.2-3.1 1.2-2.5 1.2-1.8 1.2-1.4 1.2-.9 1.2-.4 1.2 0 1.2 .5 1.3 .9 1.2 1.3 1.2 1.7 1.2 2.2 1.2 2.7 1.2 3.1 1.2 3.5 1.2 3.9 1.2 4.2 1.2 4.4 1.2 4.6 1.2 4.6 1.2 4.5 1.2 4.2 1.2 3.8 1.2 3.3 1.2 2.6 1.3 1.8 1.2 1 1.2 .1 1.2-.8 1.2-1.8 1.2-2.6 1.2-3.3 1.2-3.9 1.2-4.4 1.2-4.7 1.2-4.8 1.2-4.6 1.2-4.4 1.2-3.8 1.2-3.1 1.2-2.4 1.2-1.4 1.3-.4 1.2 .5 1.2 1.6 1.2 2.5 1.2 3.3 1.2 4 1.2 4.6 1.2 5 1.2 5.3 1.2 5.2 1.2 5.2 1.2 4.8 1.2 4.5 1.2 3.9 1.2 3.3 1.2 2.6 1.2 1.9 1.2 1.1 1.3 .5 1.2-.3 1.2-.9 1.2-1.5 1.2-2.1 1.2-2.5 1.2-3 1.2-3.5 1.2-3.9 1.2-4.2 1.2-4.7 1.2-5 1.2-5.4 1.2-5.8 1.2-6.1 1.2-6.5 1.2-6.7 1.3-7 1.2-7 1.2-7.1 1.2-6.9 1.2-6.6 1.2-6.1 1.2-5.4 1.2-4.5 1.2-3.5"/><path class="c" d="M155.9 -182.7m0 0l.7 1.1m-1.9 2.4l.7 1.2m-1.9 3.3l.7 1.3m-1.9 4.1l.7 1.4m-1.9 4.7l.7 1.6m-1.9 5l.7 1.7m-1.9 5.2l.7 2m-1.9 5.1l.7 2.2m-1.9 4.8l.7 2.5m-2 4.5l.8 2.8m-2 3.9l.7 3.1m-1.9 3.4l.7 3.4m-1.9 2.7l.7 3.8m-1.9 2l.7 4m-1.9 1.4l.7 4.3m-1.9 .7l.7 4.5m-1.9 .2l.7 4.5m-1.9-.3l.7 4.5m-1.9-.6l.7 4.4m-1.9-.9l.7 4.1m-1.9-1.1l.7 3.8m-1.9-1.3l.7 3.5m-1.9-1.4l.7 3m-1.9-1.5l.7 2.5m-1.9-1.6l.7 1.9m-1.9-1.6l.7 1.3m-2-1.8l.8 .9m-2-2l.8 .3m-2-2.2l.7-.1m-1.9-2.5l.7-.5m-1.9-2.8l.7-.7m-1.9-3.2l.7-.9m-1.9-3.6l.7-.8m-1.9-4l.7-.8m-1.9-4.4l.7-.6m-1.9-4.6l.7-.4m-1.9-4.9l.7 0m-1.9-5l.7 .4m-1.9-5l.7 .8m-1.9-4.8l.7 1.2m-1.9-4.5l.7 1.6m-1.9-4.1l.7 2m-1.9-3.6l.7 2.4m-1.9-2.9l.7 2.6m-2-2.2l.8 2.8m-2-1.4l.7 2.9m-1.9-.5l.7 2.8m-1.9 .3l.7 2.8m-1.9 1l.7 2.7m-1.9 1.7l.7 2.4m-1.9 2.2l.7 2.2m-1.9 2.6l.7 1.8m-1.9 2.9l.7 1.5m-1.9 2.9l.7 1.3m-1.9 2.6l.7 1.1m-1.9 2.2l.7 .9m-1.9 1.7l.7 .7m-1.9 1.1l.7 .5m-1.9 .3l.7 .5m-1.9-.6l.7 .6m-1.9-1.6l.7 .6m-2-2.4l.8 .7m-2-3.3l.7 .8m-1.9-4.1l.7 1m-1.9-4.8l.7 1.1m-1.9-5.3l.7 1.2m-1.9-5.7l.7 1.3m-1.9-5.9l.7 1.4m-1.9-6l.7 1.4m-1.9-5.8l.7 1.3m-1.9-5.5l.7 1.2m-1.9-5.1l.7 1.1m-1.9-4.6l.7 .9m-1.9-4l.7 .7m-1.9-3.4l.7 .5m-1.9-2.7l.7 .4m-1.9-2.1l.7 .1m-1.9-1.4l.7 0m-2-.9l.8 0m-2-.5l.8 .1m-2-.1l.7 .2m-1.9 .2l.7 .5m-1.9 .4l.7 .7m-1.9 .7l.7 1.1m-1.9 .7l.7 1.7m-1.9 .8l.7 2.2m-1.9 .9l.7 2.7m-1.9 1l.7 3.3m-1.9 1.2l.7 3.9m-1.9 1.3l.7 4.4m-1.9 1.5l.7 4.8m-1.9 1.8l.7 5.2m-1.9 2.1l.7 5.5m-1.9 2.4l.7 5.6m-1.9 2.8l.7 5.6m-1.9 3l.7 5.5m-2 3.3l.8 5.2m-2 3.5l.7 4.9m-1.9 3.5l.7 4.4m-1.9 3.5l.7 3.8m-1.9 3.3l.7 3.2"/><path class="s" d="M61.4 -138.7L60.6 -138.8M84.3 -80.4L83.6 -81M108.4 -120.1L107.7 -121.7M125.3 -66.1L124.5 -67M59.4 -138.8L60.6 -138.8M123.3 -68.1L124.5 -67"/></g>
<g transform="translate(325.2 241.5)"><path class="fgR" d="M36 -25l2.5-12.6 2.4-15.3 2.4-16.7 2.4-16.4 2.4-15.2 2.4-13.1 2.4-10.4 2.4-7.8 2.4-4.9 2.5-2.4 2.4 .2 2.4 2.4 2.4 4.7 2.4 6.6 2.4 8 2.4 8.9 2.4 9 2.4 8.2 2.5 6.5 2.4 3.9 2.4 .9 2.4-2.3 2.4-5.1 2.4-7.3 2.4-8.2 2.4-8 2.4-6.4 2.5-3.9 2.4-.7 2.4 2.6 2.4 5.6 2.4 7.9 2.4 9.2 2.4 9.5 2.4 8.7 2.5 7.1 2.4 4.9 2.4 2.4 2.4-.2 2.4-2.9 2.4-5.4 2.4-7.9 2.4-10.2 2.4-12.2 2.5-13.9 2.4-14.9 2.4-15.2 2.4-14.2 2.4-12 2.4-8.3-.7-1.3-2.4 8.2-2.4 11.8-2.4 13.9-2.4 14.6-2.5 14.3-2.4 13.3-2.4 11.7-2.4 9.9-2.4 8-2.4 5.9-2.4 3.8-2.4 1.3-2.4-1.2-2.5-4-2.4-6.5-2.4-8.5-2.4-9.8-2.4-9.9-2.4-8.8-2.4-6.5-2.4-3.3-2.4 .3-2.5 3.8-2.4 6.8-2.4 8.5-2.4 8.8-2.4 7.9-2.4 5.5-2.4 2.4-2.4-1-2.5-4.2-2.4-6.8-2.4-8.5-2.4-9.1-2.4-8.8-2.4-7.7-2.4-6.2-2.4-4.3-2.4-2.3-2.5-.3-2.4 1.8-2.4 4.2-2.4 6.6-2.4 9.4-2.4 12-2.4 14.6-2.4 16.4-2.4 17-2.5 16.3-2.4 13.8z"/><path class="r" d="M35.3 -28l1.2-6.5 1.2-7.3 1.2-7.9 1.3-8.4 1.2-8.5 1.2-8.5 1.2-8.4 1.2-8 1.2-7.6 1.2-7 1.2-6.3 1.2-5.7 1.2-5.1 1.2-4.3 1.2-3.6 1.2-3 1.2-2.4 1.2-1.8 1.2-1.1 1.2-.7 1.3-.1 1.2 .4 1.2 .9 1.2 1.4 1.2 2 1.2 2.3 1.2 2.9 1.2 3.3 1.2 3.7 1.2 4 1.2 4.3 1.2 4.5 1.2 4.6 1.2 4.5 1.2 4.4 1.2 4.1 1.2 3.7 1.2 3.1 1.3 2.5 1.2 1.7 1.2 1 1.2 0 1.2-.8 1.2-1.6 1.2-2.4 1.2-3.1 1.2-3.7 1.2-4.2 1.2-4.4 1.2-4.4 1.2-4.4 1.2-4.1 1.2-3.7 1.2-3.1 1.2-2.3 1.3-1.5 1.2-.6 1.2 .3 1.2 1.2 1.2 2.1 1.2 2.9 1.2 3.6 1.2 4.2 1.2 4.6 1.2 4.9 1.2 5 1.2 5 1.2 4.8 1.2 4.4 1.2 4.1 1.2 3.5 1.2 3 1.3 2.3 1.2 1.7 1.2 .9 1.2 .3 1.2-.3 1.2-1 1.2-1.6 1.2-2.2 1.2-2.7 1.2-3.2 1.2-3.8 1.2-4.2 1.2-4.7 1.2-5.2 1.2-5.7 1.2-6 1.2-6.5 1.2-6.8 1.3-7 1.2-7.3 1.2-7.3 1.2-7.3 1.2-7.2 1.2-6.7 1.2-6.3 1.2-5.5 1.2-4.6 1.2-3.6"/><path class="c" d="M155.9 -183.1m0 0l.7 1.3m-1.9 2.3l.7 1.3m-1.9 3.3l.7 1.4m-1.9 4.1l.7 1.5m-1.9 4.8l.7 1.6m-1.9 5.1l.7 1.8m-1.9 5.4l.7 1.9m-1.9 5.4l.7 2.2m-1.9 5.1l.7 2.5m-1.9 4.8l.7 2.7m-2 4.3l.8 3.1m-2 3.7l.7 3.5m-1.9 3l.7 3.7m-1.9 2.3l.7 4.1m-1.9 1.6l.7 4.2m-1.9 1l.7 4.4m-1.9 .3l.7 4.5m-1.9-.3l.7 4.5m-1.9-.7l.7 4.4m-1.9-1.2l.7 4.2m-1.9-1.5l.7 3.9m-1.9-1.7l.7 3.5m-1.9-1.9l.7 3m-1.9-2l.7 2.4m-1.9-2.1l.7 1.9m-1.9-2.2l.7 1.3m-1.9-2.2l.7 .7m-1.9-2.4l.7 .3m-2-2.6l.8-.2m-2-2.8l.7-.5m-1.9-3l.7-.8m-1.9-3.3l.7-.9m-1.9-3.5l.7-1m-1.9-3.8l.7-.9m-1.9-4.1l.7-.7m-1.9-4.3l.7-.4m-1.9-4.5l.7 0m-1.9-4.6l.7 .4m-1.9-4.6l.7 .9m-1.9-4.5l.7 1.3m-1.9-4.2l.7 1.8m-1.9-3.9l.7 2.1m-1.9-3.3l.7 2.5m-1.9-2.8l.7 2.7m-1.9-2.1l.7 2.9m-2-1.4l.8 3m-2-.7l.7 3m-1.9 .1l.7 2.8m-1.9 .9l.7 2.6m-1.9 1.5l.7 2.4m-1.9 2l.7 2.1m-1.9 2.3l.7 1.8m-1.9 2.6l.7 1.5m-1.9 2.7l.7 1.1m-1.9 2.6l.7 .9m-1.9 2.2l.7 .6m-1.9 1.8l.7 .5m-1.9 1.1l.7 .4m-1.9 .4l.7 .4m-1.9-.4l.7 .4m-1.9-1.4l.7 .5m-1.9-2.2l.7 .6m-2-3.1l.8 .8m-2-3.9l.8 .9m-2-4.6l.7 1.1m-1.9-5.2l.7 1.3m-1.9-5.7l.7 1.4m-1.9-5.9l.7 1.5m-1.9-6.1l.7 1.5m-1.9-6l.7 1.5m-1.9-5.8l.7 1.4m-1.9-5.4l.7 1.2m-1.9-4.9l.7 1.1m-1.9-4.4l.7 .9m-1.9-3.8l.7 .7m-1.9-3l.7 .4m-1.9-2.4l.7 .3m-1.9-1.7l.7 .2m-1.9-1.1l.7 .2m-1.9-.6l.7 .2m-2-.1l.8 .3m-2 .4l.7 .5m-1.9 .6l.7 .9m-1.9 .9l.7 1.2m-1.9 1.2l.7 1.6m-1.9 1.4l.7 2.2m-1.9 1.4l.7 2.8m-1.9 1.5l.7 3.4m-1.9 1.7l.7 3.8m-1.9 1.9l.7 4.4m-1.9 1.9l.7 4.9m-1.9 2.1l.7 5.3m-1.9 2.3l.7 5.5m-1.9 2.5l.7 5.6m-1.9 2.8l.7 5.5m-1.9 3l.7 5.4m-1.9 3.1l.7 5.2m-2 3.2l.8 4.7m-2 3.2l.8 4.2m-2 3.1l.7 3.7m-1.9 2.8l.7 3"/><path class="s" d="M61.4 -140L60.7 -140.2M85.5 -80.5L84.8 -80.9M108.4 -119.8L107.7 -121.6M125.3 -66.9L124.6 -67.6M83.6 -81.9L84.8 -80.9"/></g>
<g transform="translate(325.9 243)"><path class="fgR" d="M36 -23.9l2.5-11.2 2.4-14.3 2.4-16.2 2.4-16.5 2.4-15.7 2.4-14 2.4-11.6 2.4-8.8 2.5-5.9 2.4-2.8 2.4 0 2.4 2.7 2.4 5 2.4 7 2.4 8.4 2.4 9 2.4 8.8 2.5 7.9 2.4 6 2.4 3.6 2.4 .8 2.4-2.2 2.4-4.8 2.4-6.6 2.4-7.6 2.4-7.3 2.5-6.1 2.4-3.9 2.4-1.2 2.4 1.9 2.4 4.7 2.4 6.9 2.4 8.6 2.4 9.1 2.4 8.9 2.5 7.7 2.4 5.9 2.4 3.5 2.4 .9 2.4-2 2.4-4.9 2.4-7.8 2.4-10.4 2.5-12.7 2.4-14.5 2.4-15.6 2.4-15.6 2.4-14.5 2.4-12.2 2.4-8.4-.7-1.4-2.4 8.3-2.4 12-2.4 14.2-2.4 15.2-2.4 14.9-2.5 13.9-2.4 12.2-2.4 10.2-2.4 7.9-2.4 5.4-2.4 2.9-2.4 .2-2.4-2.4-2.4-4.9-2.5-7.1-2.4-8.7-2.4-9.5-2.4-9.2-2.4-7.9-2.4-5.6-2.4-2.6-2.4 .7-2.5 3.9-2.4 6.4-2.4 8-2.4 8.2-2.4 7.3-2.4 5.1-2.4 2.3-2.4-.9-2.4-3.9-2.5-6.5-2.4-8.2-2.4-9-2.4-8.9-2.4-8-2.4-6.6-2.4-4.7-2.4-2.4-2.4-.2-2.5 2.4-2.4 4.9-2.4 7.8-2.4 10.4-2.4 13.1-2.4 15.2-2.4 16.4-2.4 16.7-2.4 15.3-2.5 12.6z"/><path class="r" d="M35.3 -26.5l1.2-5.8 1.3-6.8 1.2-7.4 1.2-7.9 1.2-8.3 1.2-8.4 1.2-8.3 1.2-8.1 1.2-7.8 1.2-7.4 1.2-6.8 1.2-6.3 1.2-5.5 1.2-4.9 1.2-4.2 1.2-3.6 1.2-2.8 1.2-2.1 1.2-1.5 1.3-.9 1.2-.2 1.2 .4 1.2 .9 1.2 1.5 1.2 2.1 1.2 2.6 1.2 3.1 1.2 3.5 1.2 3.8 1.2 4.2 1.2 4.4 1.2 4.5 1.2 4.6 1.2 4.4 1.2 4.3 1.2 3.9 1.3 3.5 1.2 3 1.2 2.3 1.2 1.6 1.2 .9 1.2 0 1.2-.8 1.2-1.5 1.2-2.3 1.2-2.8 1.2-3.5 1.2-3.8 1.2-4.1 1.2-4.1 1.2-4.1 1.2-3.9 1.2-3.5 1.2-2.9 1.3-2.3 1.2-1.6 1.2-.8 1.2 .1 1.2 .8 1.2 1.8 1.2 2.4 1.2 3.2 1.2 3.7 1.2 4.2 1.2 4.5 1.2 4.7 1.2 4.8 1.2 4.7 1.2 4.5 1.2 4.2 1.2 3.8 1.3 3.3 1.2 2.8 1.2 2.1 1.2 1.5 1.2 .9 1.2 .2 1.2-.4 1.2-1.1 1.2-1.8 1.2-2.4 1.2-3 1.2-3.7 1.2-4.2 1.2-4.8 1.2-5.4 1.2-5.8 1.2-6.4 1.2-6.7 1.3-7.2 1.2-7.4 1.2-7.5 1.2-7.6 1.2-7.6 1.2-7.3 1.2-6.9 1.2-6.4 1.2-5.6 1.2-4.7 1.2-3.6"/><path class="c" d="M155.9 -183.3m0 0l.7 1.4m-1.9 2.2l.7 1.5m-1.9 3.2l.7 1.5m-1.9 4.1l.7 1.6m-1.9 4.8l.7 1.7m-1.9 5.2l.7 1.8m-1.9 5.5l.7 2m-1.9 5.6l.7 2.2m-1.9 5.4l.7 2.4m-1.9 5.1l.7 2.8m-1.9 4.6l.7 3.1m-2 4.1l.8 3.3m-2 3.4l.8 3.7m-2 2.7l.7 3.9m-1.9 1.9l.7 4.2m-1.9 1.2l.7 4.4m-1.9 .4l.7 4.4m-1.9-.2l.7 4.5m-1.9-.8l.7 4.3m-1.9-1.3l.7 4.1m-1.9-1.7l.7 3.8m-1.9-2l.7 3.3m-1.9-2.2l.7 2.9m-1.9-2.5l.7 2.4m-1.9-2.6l.7 1.8m-1.9-2.7l.7 1.3m-1.9-2.8l.7 .7m-1.9-2.8l.7 .1m-1.9-2.9l.7-.3m-2-3l.8-.7m-2-3.1l.7-.9m-1.9-3.3l.7-1m-1.9-3.5l.7-1.1m-1.9-3.6l.7-1m-1.9-3.8l.7-.7m-1.9-4l.7-.4m-1.9-4.1l.7-.1m-1.9-4.1l.7 .4m-1.9-4.1l.7 .9m-1.9-4.1l.7 1.4m-1.9-3.8l.7 1.8m-1.9-3.6l.7 2.3m-1.9-3.1l.7 2.5m-1.9-2.6l.7 2.8m-1.9-2l.7 3m-1.9-1.4l.7 3m-2-.7l.8 3m-2-.1l.8 2.9m-2 .6l.7 2.7m-1.9 1.2l.7 2.4m-1.9 1.7l.7 2m-1.9 2.1l.7 1.8m-1.9 2.3l.7 1.4m-1.9 2.4l.7 1.1m-1.9 2.4l.7 .7m-1.9 2.1l.7 .6m-1.9 1.7l.7 .4m-1.9 1.1l.7 .3m-1.9 .5l.7 .3m-1.9-.3l.7 .3m-1.9-1.2l.7 .4m-1.9-2l.7 .6m-1.9-2.9l.7 .7m-1.9-3.7l.7 1m-2-4.5l.8 1.2m-2-5.1l.7 1.3m-1.9-5.6l.7 1.5m-1.9-5.9l.7 1.6m-1.9-6.2l.7 1.7m-1.9-6.2l.7 1.6m-1.9-6l.7 1.6m-1.9-5.8l.7 1.4m-1.9-5.2l.7 1.2m-1.9-4.7l.7 1m-1.9-4.1l.7 .8m-1.9-3.4l.7 .6m-1.9-2.7l.7 .5m-1.9-2l.7 .3m-1.9-1.2l.7 .2m-1.9-.6l.7 .3m-1.9-.1l.7 .4m-2 .5l.8 .6m-2 .9l.8 .8m-2 1.3l.7 1.3m-1.9 1.5l.7 1.8m-1.9 1.8l.7 2.2m-1.9 2l.7 2.8m-1.9 2.1l.7 3.4m-1.9 2.1l.7 4m-1.9 2.3l.7 4.4m-1.9 2.4l.7 4.9m-1.9 2.5l.7 5.2m-1.9 2.6l.7 5.4m-1.9 2.7l.7 5.5m-1.9 2.8l.7 5.5m-1.9 2.9l.7 5.3m-1.9 3l.7 5m-1.9 2.9l.7 4.6m-1.9 2.8l.7 4m-2 2.8l.8 3.3m-2 2.5l.7 2.6"/><path class="s" d="M62.6 -140.9L61.9 -141.1M85.5 -81.7L84.8 -82M109.6 -117.5L108.9 -118.9M126.5 -65.6L125.8 -66.9M60.7 -141.5L61.9 -141.1M107.7 -121.3L108.9 -118.9M124.6 -68.4L125.8 -66.9"/></g>
<g transform="translate(326.6 244.5)"><path class="fgR" d="M36.1 -23l2.4-9.8 2.4-13.3 2.4-15.6 2.4-16.6 2.4-16.2 2.4-14.9 2.4-12.6 2.4-9.9 2.5-6.7 2.4-3.3 2.4-.1 2.4 2.9 2.4 5.4 2.4 7.4 2.4 8.6 2.4 9.1 2.5 8.7 2.4 7.4 2.4 5.6 2.4 3.2 2.4 .6 2.4-2.1 2.4-4.3 2.4-6 2.4-6.8 2.5-6.8 2.4-5.7 2.4-3.9 2.4-1.6 2.4 1.1 2.4 3.8 2.4 6 2.4 7.8 2.4 8.9 2.5 8.9 2.4 8.3 2.4 6.9 2.4 4.6 2.4 2 2.4-1.1 2.4-4.3 2.4-7.6 2.4-10.7 2.5-13.2 2.4-15.1 2.4-16.2 2.4-16.1 2.4-14.8 2.4-12.2 2.4-8.4-.7-1.7-2.4 8.4-2.4 12.2-2.4 14.5-2.4 15.6-2.4 15.6-2.4 14.5-2.5 12.7-2.4 10.4-2.4 7.8-2.4 4.9-2.4 2-2.4-.9-2.4-3.5-2.4-5.9-2.5-7.7-2.4-8.9-2.4-9.1-2.4-8.6-2.4-6.9-2.4-4.7-2.4-1.9-2.4 1.2-2.4 3.9-2.5 6.1-2.4 7.3-2.4 7.6-2.4 6.6-2.4 4.8-2.4 2.2-2.4-.8-2.4-3.6-2.4-6-2.5-7.9-2.4-8.8-2.4-9-2.4-8.4-2.4-7-2.4-5-2.4-2.7-2.4 0-2.4 2.8-2.5 5.9-2.4 8.8-2.4 11.6-2.4 14-2.4 15.7-2.4 16.5-2.4 16.2-2.4 14.3-2.5 11.2z"/><path class="r" d="M35.3 -25.4l1.3-5.1 1.2-6.1 1.2-6.8 1.2-7.5 1.2-8 1.2-8.2 1.2-8.3 1.2-8.2 1.2-8 1.2-7.7 1.2-7.3 1.2-6.7 1.2-6.1 1.2-5.5 1.2-4.8 1.2-4 1.2-3.3 1.3-2.6 1.2-1.7 1.2-1.1 1.2-.3 1.2 .3 1.2 1 1.2 1.7 1.2 2.2 1.2 2.8 1.2 3.3 1.2 3.7 1.2 4 1.2 4.4 1.2 4.4 1.2 4.6 1.2 4.5 1.2 4.3 1.2 4.1 1.3 3.8 1.2 3.3 1.2 2.7 1.2 2.2 1.2 1.4 1.2 .8 1.2 0 1.2-.8 1.2-1.4 1.2-2.1 1.2-2.7 1.2-3.1 1.2-3.5 1.2-3.7 1.2-3.9 1.2-3.7 1.2-3.6 1.3-3.3 1.2-2.8 1.2-2.3 1.2-1.6 1.2-1 1.2-.2 1.2 .6 1.2 1.3 1.2 2 1.2 2.7 1.2 3.2 1.2 3.7 1.2 4.2 1.2 4.4 1.2 4.5 1.2 4.6 1.2 4.6 1.2 4.3 1.3 4 1.2 3.7 1.2 3.2 1.2 2.7 1.2 2.1 1.2 1.4 1.2 .8 1.2 .1 1.2-.7 1.2-1.3 1.2-2.1 1.2-2.8 1.2-3.5 1.2-4.3 1.2-4.8 1.2-5.6 1.2-6.1 1.3-6.6 1.2-7.1 1.2-7.4 1.2-7.7 1.2-7.9 1.2-7.8 1.2-7.8 1.2-7.5 1.2-7 1.2-6.5 1.2-5.7 1.2-4.7 1.2-3.7"/><path class="c" d="M155.9 -183.4m0 0l.7 1.7m-1.9 2l.7 1.7m-1.9 3l.7 1.7m-1.9 4l.7 1.7m-1.9 4.8l.7 1.7m-1.9 5.3l.7 1.9m-1.9 5.6l.7 2m-1.9 5.8l.7 2.2m-1.9 5.6l.7 2.5m-1.9 5.4l.7 2.7m-1.9 5l.7 3.1m-1.9 4.3l.7 3.4m-1.9 3.7l.7 3.7m-2 2.9l.8 4m-2 2.1l.7 4.2m-1.9 1.4l.7 4.3m-1.9 .5l.7 4.5m-1.9-.2l.7 4.4m-1.9-.9l.7 4.3m-1.9-1.5l.7 4.1m-1.9-2l.7 3.7m-1.9-2.4l.7 3.4m-1.9-2.7l.7 2.8m-1.9-2.9l.7 2.3m-1.9-3.1l.7 1.7m-1.9-3.1l.7 1.1m-1.9-3.2l.7 .6m-1.9-3.3l.7 .1m-1.9-3.3l.7-.4m-1.9-3.3l.7-.7m-2-3.3l.8-1m-2-3.3l.8-1.1m-2-3.5l.7-1m-1.9-3.6l.7-.9m-1.9-3.6l.7-.8m-1.9-3.6l.7-.4m-1.9-3.8l.7 0m-1.9-3.7l.7 .5m-1.9-3.7l.7 .9m-1.9-3.6l.7 1.4m-1.9-3.4l.7 1.8m-1.9-3.1l.7 2.3m-1.9-2.9l.7 2.6m-1.9-2.4l.7 2.9m-1.9-1.9l.7 3m-1.9-1.4l.7 3.1m-1.9-.8l.7 3m-1.9-.2l.7 2.9m-2 .4l.8 2.6m-2 1l.7 2.3m-1.9 1.4l.7 2.1m-1.9 1.8l.7 1.6m-1.9 2.1l.7 1.3m-1.9 2.2l.7 .9m-1.9 2.2l.7 .7m-1.9 2l.7 .4m-1.9 1.7l.7 .2m-1.9 1.2l.7 .2m-1.9 .6l.7 .1m-1.9-.1l.7 .1m-1.9-.9l.7 .3m-1.9-1.7l.7 .5m-1.9-2.7l.7 .7m-1.9-3.4l.7 .9m-1.9-4.2l.7 1.1m-2-4.9l.8 1.4m-2-5.5l.8 1.6m-2-5.9l.7 1.6m-1.9-6.1l.7 1.7m-1.9-6.3l.7 1.8m-1.9-6.2l.7 1.6m-1.9-6l.7 1.6m-1.9-5.6l.7 1.4m-1.9-5.1l.7 1.2m-1.9-4.5l.7 1m-1.9-3.8l.7 .8m-1.9-3l.7 .6m-1.9-2.3l.7 .5m-1.9-1.5l.7 .4m-1.9-.7l.7 .4m-1.9-.1l.7 .5m-1.9 .6l.7 .7m-1.9 1l.7 1m-2 1.6l.8 1.4m-2 1.9l.7 1.8m-1.9 2.2l.7 2.4m-1.9 2.4l.7 2.9m-1.9 2.6l.7 3.4m-1.9 2.7l.7 3.9m-1.9 2.8l.7 4.4m-1.9 2.9l.7 4.8m-1.9 2.9l.7 5.1m-1.9 2.9l.7 5.3m-1.9 2.9l.7 5.4m-1.9 2.9l.7 5.4m-1.9 2.8l.7 5.2m-1.9 2.8l.7 4.8m-1.9 2.7l.7 4.3m-1.9 2.5l.7 3.8m-1.9 2.3l.7 3.1m-2 2l.8 2.4"/><path class="s" d="M62.6 -142L61.9 -142.4M85.5 -83.1L84.8 -83.2M109.6 -117.6L108.9 -119M126.5 -66L125.8 -67.1"/></g>
<g transform="translate(327.3 246)"><path class="fgR" d="M36.1 -22.3l2.4-8.5 2.4-12.2 2.4-15 2.4-16.5 2.4-16.7 2.4-15.7 2.4-13.7 2.5-10.9 2.4-7.4 2.4-3.8 2.4-.2 2.4 3.1 2.4 5.8 2.4 7.7 2.4 8.9 2.4 9.1 2.5 8.4 2.4 7.1 2.4 5.1 2.4 2.8 2.4 .3 2.4-1.9 2.4-4 2.4-5.3 2.4-6 2.5-6.1 2.4-5.3 2.4-3.9 2.4-2 2.4 .4 2.4 2.8 2.4 5.1 2.4 7 2.5 8.4 2.4 9.1 2.4 8.9 2.4 7.8 2.4 5.8 2.4 3.1 2.4-.2 2.4-3.8 2.4-7.5 2.5-10.9 2.4-13.7 2.4-15.7 2.4-16.7 2.4-16.5 2.4-14.9 2.4-12.3 2.4-8.4-.7-1.9-2.4 8.4-2.4 12.2-2.4 14.8-2.4 16.1-2.4 16.2-2.4 15.1-2.5 13.2-2.4 10.7-2.4 7.6-2.4 4.3-2.4 1.1-2.4-2-2.4-4.6-2.4-6.9-2.4-8.3-2.5-8.9-2.4-8.9-2.4-7.8-2.4-6-2.4-3.8-2.4-1.1-2.4 1.6-2.4 3.9-2.4 5.7-2.5 6.8-2.4 6.8-2.4 6-2.4 4.3-2.4 2.1-2.4-.6-2.4-3.2-2.4-5.6-2.4-7.4-2.5-8.7-2.4-9.1-2.4-8.6-2.4-7.4-2.4-5.4-2.4-2.9-2.4 .1-2.4 3.3-2.5 6.7-2.4 9.9-2.4 12.6-2.4 14.9-2.4 16.2-2.4 16.6-2.4 15.6-2.4 13.3-2.4 9.8z"/><path class="r" d="M35.4 -24.5l1.2-4.4 1.2-5.4 1.2-6.3 1.2-7 1.2-7.6 1.2-8 1.2-8.3 1.2-8.3 1.2-8.2 1.2-8 1.2-7.7 1.2-7.2 1.2-6.6 1.2-6 1.2-5.3 1.2-4.6 1.3-3.7 1.2-3 1.2-2 1.2-1.3 1.2-.4 1.2 .3 1.2 1.1 1.2 1.8 1.2 2.4 1.2 3 1.2 3.5 1.2 3.9 1.2 4.2 1.2 4.4 1.2 4.6 1.2 4.5 1.2 4.4 1.3 4.3 1.2 3.9 1.2 3.5 1.2 3.1 1.2 2.5 1.2 2 1.2 1.2 1.2 .6 1.2 0 1.2-.7 1.2-1.4 1.2-1.9 1.2-2.4 1.2-2.9 1.2-3.1 1.2-3.4 1.2-3.4 1.2-3.5 1.3-3.3 1.2-3 1.2-2.7 1.2-2.2 1.2-1.7 1.2-1.1 1.2-.5 1.2 .3 1.2 .8 1.2 1.6 1.2 2.2 1.2 2.8 1.2 3.2 1.2 3.8 1.2 4 1.2 4.4 1.2 4.5 1.3 4.5 1.2 4.4 1.2 4.3 1.2 4 1.2 3.7 1.2 3.2 1.2 2.6 1.2 2 1.2 1.4 1.2 .6 1.2-.1 1.2-1 1.2-1.7 1.2-2.6 1.2-3.4 1.2-4.2 1.2-5 1.2-5.7 1.3-6.3 1.2-6.9 1.2-7.4 1.2-7.7 1.2-8.1 1.2-8.1 1.2-8.1 1.2-8 1.2-7.6 1.2-7.2 1.2-6.5 1.2-5.7 1.2-4.7 1.2-3.7"/><path class="c" d="M155.9 -183.2m0 0l.7 1.9m-1.9 1.8l.7 1.9m-1.9 2.8l.7 1.9m-1.9 3.8l.7 1.9m-1.9 4.6l.7 2m-1.9 5.2l.7 2m-1.9 5.6l.7 2.1m-1.9 5.9l.7 2.3m-1.9 5.8l.7 2.5m-1.9 5.6l.7 2.8m-1.9 5.3l.7 3m-1.9 4.7l.7 3.4m-1.9 4l.7 3.6m-1.9 3.3l.7 3.9m-2 2.4l.8 4.1m-2 1.6l.8 4.3m-2 .7l.7 4.3m-1.9-.1l.7 4.3m-1.9-.9l.7 4.2m-1.9-1.6l.7 3.9m-1.9-2.2l.7 3.7m-1.9-2.7l.7 3.2m-1.9-3.1l.7 2.8m-1.9-3.4l.7 2.2m-1.9-3.6l.7 1.7m-1.9-3.7l.7 1.1m-1.9-3.7l.7 .5m-1.9-3.7l.7 0m-1.9-3.7l.7-.4m-1.9-3.6l.7-.8m-1.9-3.5l.7-1m-1.9-3.4l.7-1.1m-2-3.4l.8-1.2m-2-3.3l.7-1m-1.9-3.4l.7-.7m-1.9-3.3l.7-.4m-1.9-3.4l.7 .1m-1.9-3.3l.7 .4m-1.9-3.2l.7 1m-1.9-3.2l.7 1.5m-1.9-3.1l.7 2m-1.9-2.8l.7 2.3m-1.9-2.6l.7 2.7m-1.9-2.2l.7 2.9m-1.9-1.8l.7 3.1m-1.9-1.4l.7 3.1m-1.9-.9l.7 3.1m-1.9-.4l.7 2.9m-1.9 .1l.7 2.7m-2 .6l.8 2.4m-2 1.1l.7 2m-1.9 1.4l.7 1.6m-1.9 1.8l.7 1.2m-1.9 1.9l.7 .9m-1.9 2l.7 .5m-1.9 1.9l.7 .3m-1.9 1.6l.7 .2m-1.9 1.2l.7 0m-1.9 .7l.7 0m-1.9 0l.7 .1m-1.9-.7l.7 .3m-1.9-1.5l.7 .4m-1.9-2.4l.7 .7m-1.9-3.2l.7 .9m-1.9-4l.7 1.2m-1.9-4.7l.7 1.4m-1.9-5.3l.7 1.5m-2-5.8l.8 1.8m-2-6.2l.7 1.8m-1.9-6.3l.7 1.8m-1.9-6.4l.7 1.8m-1.9-6.2l.7 1.7m-1.9-5.9l.7 1.5m-1.9-5.4l.7 1.4m-1.9-4.9l.7 1.2m-1.9-4.2l.7 1m-1.9-3.4l.7 .8m-1.9-2.6l.7 .6m-1.9-1.7l.7 .6m-1.9-.9l.7 .5m-1.9-.1l.7 .7m-1.9 .6l.7 .8m-1.9 1.2l.7 1.2m-1.9 1.8l.7 1.5m-2 2.2l.8 1.9m-2 2.7l.7 2.4m-1.9 2.9l.7 2.9m-1.9 3.1l.7 3.5m-1.9 3.1l.7 4m-1.9 3.2l.7 4.5m-1.9 3.2l.7 4.8m-1.9 3.2l.7 5.1m-1.9 3.1l.7 5.3m-1.9 3l.7 5.4m-1.9 2.9l.7 5.2m-1.9 2.8l.7 5m-1.9 2.6l.7 4.6m-1.9 2.4l.7 4.1m-1.9 2.2l.7 3.5m-1.9 1.9l.7 2.9m-1.9 1.5l.7 2.2"/><path class="s" d="M62.6 -142.9L61.9 -143.5M85.5 -84.5L84.8 -84.6M110.8 -115.9L110.1 -116.9M127.7 -63.8L127 -65.5M108.9 -119.1L110.1 -116.9M125.8 -67.5L127 -65.5"/></g>
<g transform="translate(328.1 247.5)"><path class="fgR" d="M36 -22l2.4-7 2.4-11.1 2.4-14.3 2.4-16.4 2.4-17.1 2.4-16.5 2.5-14.7 2.4-11.8 2.4-8.2 2.4-4.3 2.4-.3 2.4 3.3 2.4 6.2 2.4 8.1 2.4 9.1 2.5 9.1 2.4 8.1 2.4 6.6 2.4 4.6 2.4 2.3 2.4 .2 2.4-1.9 2.4-3.5 2.4-4.6 2.5-5.3 2.4-5.3 2.4-4.9 2.4-3.9 2.4-2.3 2.4-.4 2.4 1.8 2.4 4.1 2.4 6.3 2.5 8 2.4 9.2 2.4 9.4 2.4 8.7 2.4 6.9 2.4 4.2 2.4 .7 2.4-3.2 2.5-7.3 2.4-11.1 2.4-14.2 2.4-16.2 2.4-17.2 2.4-16.9 2.4-15.1 2.4-12.2 2.4-8.4-.7-2.1-2.4 8.4-2.4 12.3-2.4 14.9-2.4 16.5-2.4 16.7-2.4 15.7-2.4 13.7-2.5 10.9-2.4 7.5-2.4 3.8-2.4 .2-2.4-3.1-2.4-5.8-2.4-7.8-2.4-8.9-2.4-9.1-2.5-8.4-2.4-7-2.4-5.1-2.4-2.8-2.4-.4-2.4 2-2.4 3.9-2.4 5.3-2.5 6.1-2.4 6-2.4 5.3-2.4 4-2.4 1.9-2.4-.3-2.4-2.8-2.4-5.1-2.4-7.1-2.5-8.4-2.4-9.1-2.4-8.9-2.4-7.7-2.4-5.8-2.4-3.1-2.4 .2-2.4 3.8-2.4 7.4-2.5 10.9-2.4 13.7-2.4 15.7-2.4 16.7-2.4 16.5-2.4 15-2.4 12.2-2.4 8.5z"/><path class="r" d="M35.3 -23.8l1.2-3.7 1.2-4.8 1.2-5.7 1.2-6.5 1.2-7.2 1.2-7.8 1.2-8.1 1.2-8.4 1.2-8.4 1.2-8.3 1.2-8 1.2-7.7 1.2-7.1 1.2-6.6 1.2-5.8 1.3-5.1 1.2-4.1 1.2-3.3 1.2-2.4 1.2-1.4 1.2-.6 1.2 .4 1.2 1.1 1.2 2 1.2 2.6 1.2 3.2 1.2 3.7 1.2 4 1.2 4.4 1.2 4.5 1.2 4.6 1.2 4.5 1.3 4.4 1.2 4 1.2 3.8 1.2 3.3 1.2 2.8 1.2 2.3 1.2 1.7 1.2 1.1 1.2 .4 1.2-.1 1.2-.7 1.2-1.2 1.2-1.8 1.2-2.2 1.2-2.5 1.2-2.8 1.2-3 1.2-3 1.3-3.1 1.2-3 1.2-2.8 1.2-2.5 1.2-2.2 1.2-1.7 1.2-1.3 1.2-.7 1.2-.1 1.2 .5 1.2 1.1 1.2 1.7 1.2 2.2 1.2 2.9 1.2 3.3 1.2 3.7 1.2 4.1 1.3 4.3 1.2 4.6 1.2 4.5 1.2 4.5 1.2 4.4 1.2 4.1 1.2 3.7 1.2 3.2 1.2 2.6 1.2 1.9 1.2 1.2 1.2 .3 1.2-.5 1.2-1.5 1.2-2.3 1.2-3.3 1.2-4.2 1.3-5 1.2-5.9 1.2-6.5 1.2-7.2 1.2-7.6 1.2-8.1 1.2-8.3 1.2-8.4 1.2-8.3 1.2-8.2 1.2-7.7 1.2-7.2 1.2-6.6 1.2-5.7 1.2-4.7 1.2-3.7"/><path class="c" d="M155.8 -182.8m0 0l.7 2.1m-1.9 1.6l.7 2m-1.9 2.7l.7 2.1m-1.9 3.6l.7 2.1m-1.9 4.5l.7 2m-1.9 5.2l.7 2.1m-1.9 5.6l.7 2.2m-1.9 6l.7 2.3m-1.9 6l.7 2.6m-1.9 5.8l.7 2.8m-1.9 5.5l.7 3.1m-1.9 5l.7 3.3m-1.9 4.3l.7 3.6m-1.9 3.6l.7 3.8m-1.9 2.7l.7 4.1m-1.9 1.8l.7 4.2m-2 .8l.8 4.3m-2-.1l.7 4.2m-1.9-.9l.7 4.1m-1.9-1.8l.7 3.9m-1.9-2.4l.7 3.5m-1.9-3l.7 3.1m-1.9-3.4l.7 2.6m-1.9-3.8l.7 2.1m-1.9-4l.7 1.5m-1.9-4.1l.7 1m-1.9-4.2l.7 .4m-1.9-4.1l.7-.1m-1.9-4l.7-.5m-1.9-3.9l.7-.8m-1.9-3.7l.7-1m-1.9-3.5l.7-1.2m-1.9-3.4l.7-1.1m-2-3.2l.8-1m-2-3.1l.7-.7m-1.9-3l.7-.4m-1.9-2.9l.7 0m-1.9-2.9l.7 .6m-1.9-2.8l.7 1m-1.9-2.7l.7 1.5m-1.9-2.6l.7 2m-1.9-2.5l.7 2.4m-1.9-2.3l.7 2.8m-1.9-2.1l.7 3m-1.9-1.7l.7 3.1m-1.9-1.4l.7 3.2m-1.9-1l.7 3.1m-1.9-.6l.7 2.9m-1.9-.1l.7 2.7m-1.9 .3l.7 2.3m-2 .8l.8 1.9m-2 1.1l.8 1.6m-2 1.4l.7 1.2m-1.9 1.6l.7 .8m-1.9 1.7l.7 .5m-1.9 1.7l.7 .3m-1.9 1.5l.7 0m-1.9 1.2l.7 0m-1.9 .7l.7 0m-1.9 .1l.7 .1m-1.9-.5l.7 .1m-1.9-1.2l.7 .3m-1.9-2l.7 .6m-1.9-2.9l.7 .9m-1.9-3.7l.7 1.1m-1.9-4.4l.7 1.4m-1.9-5.2l.7 1.6m-1.9-5.6l.7 1.7m-2-6.1l.8 1.9m-2-6.4l.7 1.9m-1.9-6.5l.7 1.9m-1.9-6.4l.7 1.8m-1.9-6.2l.7 1.7m-1.9-5.7l.7 1.4m-1.9-5.1l.7 1.3m-1.9-4.5l.7 1.1m-1.9-3.7l.7 .9m-1.9-2.9l.7 .8m-1.9-1.9l.7 .7m-1.9-1.1l.7 .8m-1.9-.2l.7 .8m-1.9 .6l.7 1m-1.9 1.4l.7 1.3m-1.9 2l.7 1.6m-1.9 2.5l.7 2.1m-2 3l.8 2.5m-2 3.3l.8 3m-2 3.6l.7 3.5m-1.9 3.6l.7 4m-1.9 3.7l.7 4.4m-1.9 3.6l.7 4.8m-1.9 3.5l.7 5.1m-1.9 3.3l.7 5.2m-1.9 3.2l.7 5.2m-1.9 2.9l.7 5.1m-1.9 2.7l.7 4.8m-1.9 2.4l.7 4.4m-1.9 2.1l.7 3.9m-1.9 1.8l.7 3.3m-1.9 1.5l.7 2.6m-1.9 1.1l.7 1.8"/><path class="s" d="M63.7 -142.5L63 -143.3M85.4 -85.9L84.7 -86M110.7 -116.4L110 -117.4M127.6 -63.8L126.9 -65.3M61.8 -144.4L63 -143.3"/></g>
<g transform="translate(328.8 249)"><path class="fgR" d="M36 -22l2.4-5.5 2.4-9.9 2.4-13.6 2.4-16.2 2.4-17.4 2.4-17.2 2.5-15.7 2.4-12.7 2.4-9 2.4-4.7 2.4-.4 2.4 3.5 2.4 6.5 2.4 8.4 2.5 9.3 2.4 9 2.4 7.9 2.4 6.1 2.4 4 2.4 1.9 2.4 0 2.4-1.8 2.4-3 2.5-4 2.4-4.5 2.4-4.6 2.4-4.5 2.4-3.8 2.4-2.7 2.4-1.1 2.4 .8 2.4 3.2 2.5 5.5 2.4 7.6 2.4 9.3 2.4 9.9 2.4 9.6 2.4 8 2.4 5.2 2.4 1.6 2.4-2.7 2.5-7.1 2.4-11.2 2.4-14.6 2.4-16.8 2.4-17.6 2.4-17.1 2.4-15.3 2.4-12.2 2.5-8.4-.8-2.2-2.4 8.4-2.4 12.2-2.4 15.1-2.4 16.9-2.4 17.2-2.4 16.2-2.4 14.2-2.4 11.1-2.5 7.3-2.4 3.2-2.4-.7-2.4-4.2-2.4-6.9-2.4-8.7-2.4-9.4-2.4-9.2-2.5-8-2.4-6.3-2.4-4.1-2.4-1.8-2.4 .4-2.4 2.3-2.4 3.9-2.4 4.9-2.4 5.3-2.5 5.3-2.4 4.6-2.4 3.5-2.4 1.9-2.4-.2-2.4-2.3-2.4-4.6-2.4-6.6-2.4-8.1-2.5-9.1-2.4-9.1-2.4-8.1-2.4-6.2-2.4-3.3-2.4 .3-2.4 4.3-2.4 8.2-2.4 11.8-2.5 14.7-2.4 16.5-2.4 17.1-2.4 16.4-2.4 14.3-2.4 11.1-2.4 7z"/><path class="r" d="M35.3 -23.5l1.2-2.9 1.2-4.1 1.2-5.1 1.2-6 1.2-6.8 1.2-7.5 1.2-8 1.2-8.4 1.2-8.5 1.2-8.6 1.2-8.4 1.2-8.1 1.2-7.6 1.3-7.1 1.2-6.3 1.2-5.5 1.2-4.6 1.2-3.6 1.2-2.7 1.2-1.6 1.2-.6 1.2 .3 1.2 1.2 1.2 2.1 1.2 2.8 1.2 3.4 1.2 3.8 1.2 4.3 1.2 4.5 1.2 4.6 1.2 4.6 1.3 4.5 1.2 4.2 1.2 3.9 1.2 3.6 1.2 3 1.2 2.6 1.2 2 1.2 1.4 1.2 .9 1.2 .4 1.2-.2 1.2-.7 1.2-1.2 1.2-1.5 1.2-2 1.2-2.2 1.2-2.4 1.3-2.6 1.2-2.7 1.2-2.7 1.2-2.6 1.2-2.6 1.2-2.3 1.2-2.1 1.2-1.8 1.2-1.4 1.2-.9 1.2-.5 1.2 .1 1.2 .6 1.2 1.2 1.2 1.8 1.2 2.3 1.2 2.9 1.2 3.4 1.3 3.8 1.2 4.2 1.2 4.5 1.2 4.7 1.2 4.7 1.2 4.7 1.2 4.5 1.2 4.2 1.2 3.8 1.2 3.1 1.2 2.5 1.2 1.7 1.2 .8 1.2-.1 1.2-1.1 1.2-2.1 1.2-3.2 1.3-4.1 1.2-5.1 1.2-6 1.2-6.8 1.2-7.4 1.2-7.9 1.2-8.3 1.2-8.6 1.2-8.6 1.2-8.6 1.2-8.3 1.2-7.8 1.2-7.3 1.2-6.5 1.2-5.7 1.2-4.8 1.2-3.6"/><path class="c" d="M155.8 -182.2m0 0l.8 2.2m-2 1.4l.7 2.3m-1.9 2.5l.7 2.2m-1.9 3.5l.7 2.2m-1.9 4.3l.7 2.2m-1.9 5.1l.7 2.2m-1.9 5.6l.7 2.4m-1.9 5.9l.7 2.5m-1.9 6.1l.7 2.6m-1.9 6l.7 2.8m-1.9 5.8l.7 3m-1.9 5.3l.7 3.3m-1.9 4.6l.7 3.6m-1.9 3.8l.7 3.8m-1.9 3l.7 4m-1.9 2l.7 4.1m-1.9 1l.7 4.1m-2 0l.8 4.1m-2-.9l.7 3.9m-1.9-1.8l.7 3.7m-1.9-2.6l.7 3.4m-1.9-3.3l.7 3m-1.9-3.8l.7 2.5m-1.9-4.2l.7 2m-1.9-4.5l.7 1.5m-1.9-4.6l.7 .9m-1.9-4.7l.7 .4m-1.9-4.6l.7-.1m-1.9-4.4l.7-.5m-1.9-4.2l.7-.8m-1.9-3.9l.7-1m-1.9-3.7l.7-1.1m-1.9-3.4l.7-1.1m-1.9-3.1l.7-.9m-2-2.9l.8-.7m-2-2.7l.8-.4m-2-2.5l.7 .1m-1.9-2.4l.7 .5m-1.9-2.3l.7 1m-1.9-2.2l.7 1.5m-1.9-2.1l.7 2m-1.9-2.1l.7 2.4m-1.9-1.9l.7 2.7m-1.9-1.8l.7 3m-1.9-1.6l.7 3.1m-1.9-1.3l.7 3.1m-1.9-1l.7 3m-1.9-.7l.7 2.9m-1.9-.3l.7 2.6m-1.9 0l.7 2.3m-1.9 .4l.7 1.9m-1.9 .8l.7 1.5m-2 1.1l.8 1.1m-2 1.3l.7 .8m-1.9 1.4l.7 .5m-1.9 1.5l.7 .2m-1.9 1.3l.7 0m-1.9 1.2l.7-.1m-1.9 .8l.7-.1m-1.9 .3l.7-.1m-1.9-.3l.7 .1m-1.9-1l.7 .3m-1.9-1.7l.7 .5m-1.9-2.5l.7 .8m-1.9-3.4l.7 1.1m-1.9-4.1l.7 1.3m-1.9-4.9l.7 1.6m-1.9-5.5l.7 1.8m-1.9-6l.7 1.8m-2-6.3l.8 1.9m-2-6.5l.8 1.9m-2-6.5l.7 1.9m-1.9-6.4l.7 1.7m-1.9-6l.7 1.6m-1.9-5.4l.7 1.4m-1.9-4.8l.7 1.2m-1.9-4l.7 1.1m-1.9-3.2l.7 1m-1.9-2.2l.7 .9m-1.9-1.2l.7 .9m-1.9-.3l.7 1m-1.9 .6l.7 1.2m-1.9 1.5l.7 1.4m-1.9 2.2l.7 1.8m-1.9 2.8l.7 2.2m-1.9 3.3l.7 2.6m-1.9 3.7l.7 3.1m-2 4l.8 3.6m-2 4l.7 4.1m-1.9 4l.7 4.5m-1.9 3.9l.7 4.8m-1.9 3.8l.7 5m-1.9 3.5l.7 5.1m-1.9 3.3l.7 5m-1.9 3l.7 4.9m-1.9 2.6l.7 4.6m-1.9 2.2l.7 4.2m-1.9 1.8l.7 3.7m-1.9 1.4l.7 3m-1.9 1.1l.7 2.3m-1.9 .6l.7 1.5"/><path class="s" d="M63.7 -143L63 -144M85.4 -87.5L84.7 -87.4M110.7 -116.9L110 -117.9M127.6 -63.8L126.9 -65.3"/></g>
<path d="M363.4,223.7 364.1,221.5 364.9,218.9 365.6,215.9 366.4,212.5 367.1,208.7 367.9,204.7 368.6,200.3 369.4,195.8 370.1,191.0 370.9,186.0 371.7,180.9 372.4,175.7 373.2,170.5 373.9,165.2 374.7,160.0 375.4,154.8 376.2,149.8 376.9,144.8 377.7,140.0 378.4,135.5 379.2,131.1 379.9,127.0 380.7,123.1 381.4,119.6 382.2,116.3 383.0,113.4 383.7,110.8 384.5,108.6 385.2,106.7 386.0,105.2 386.7,104.1 387.5,103.3 388.2,102.8 389.0,102.7 389.7,103.0 390.5,103.6 391.2,104.4 392.0,105.6 392.8,107.1 393.5,108.8 394.3,110.7 395.0,112.8 395.8,115.2 396.5,117.7 397.3,120.3 398.0,123.0 398.8,125.8 399.5,128.6 400.3,131.5 401.0,134.3 401.8,137.1 402.5,139.9 403.3,142.6 404.1,145.1 404.8,147.6 405.6,149.9 406.3,152.0 407.1,153.9 407.8,155.7 408.6,157.2 409.3,158.5 410.1,159.6 410.8,160.4 411.6,161.1 412.3,161.4 413.1,161.6 413.9,161.5 414.6,161.1 415.4,160.6 416.1,159.8 416.9,158.9 417.6,157.7 418.4,156.4 419.1,154.9 419.9,153.4 420.6,151.7 421.4,149.9 422.1,148.0 422.9,146.1 423.6,144.2 424.4,142.2 425.2,140.3 425.9,138.5 426.7,136.7 427.4,135.0 428.2,133.4 428.9,131.9 429.7,130.6 430.4,129.5 431.2,128.5 431.9,127.8 432.7,127.2 433.4,126.9 434.2,126.8 435.0,126.9 435.7,127.3 436.5,127.9 437.2,128.7 438.0,129.8 438.7,131.1 439.5,132.7 440.2,134.4 441.0,136.3 441.7,138.5 442.5,140.8 443.2,143.2 444.0,145.8 444.8,148.4 445.5,151.2 446.3,154.0 447.0,156.9 447.8,159.7 448.5,162.6 449.3,165.4 450.0,168.1 450.8,170.7 451.5,173.2 452.3,175.5 453.0,177.6 453.8,179.6 454.5,181.3 455.3,182.7 456.1,183.9 456.8,184.8 457.6,185.4 458.3,185.6 459.1,185.5 459.8,185.1 460.6,184.3 461.3,183.1 462.1,181.6 462.8,179.7 463.6,177.5 464.3,174.9 465.1,172.0 465.9,168.8 466.6,165.2 467.4,161.4 468.1,157.2 468.9,152.9 469.6,148.3 470.4,143.5 471.1,138.6 471.9,133.5 472.6,128.3 473.4,123.1 474.1,117.9 474.9,112.6 475.6,107.4 476.4,102.3 477.2,97.4 477.9,92.6 478.7,88.0 479.4,83.7 480.2,79.6 480.9,75.9 481.7,72.5 482.4,69.4 483.2,66.8 483.9,64.7" fill="none" stroke="#ff0000" stroke-width="2.2" stroke-linecap="butt" stroke-linejoin="round"/>
<g transform="translate(329.5 250.5)"><path class="fgR" d="M36 -22.2l2.4-4 2.4-8.8 2.4-12.8 2.4-16 2.4-17.6 2.5-17.9 2.4-16.5 2.4-13.6 2.4-9.6 2.4-5.1 2.4-.5 2.4 3.6 2.4 6.8 2.4 8.7 2.5 9.4 2.4 8.9 2.4 7.6 2.4 5.6 2.4 3.5 2.4 1.4 2.4-.3 2.4-1.6 2.5-2.6 2.4-3.2 2.4-3.8 2.4-4 2.4-4 2.4-3.7 2.4-3.1 2.4-1.8 2.4-.1 2.5 2.2 2.4 4.8 2.4 7.2 2.4 9.2 2.4 10.5 2.4 10.4 2.4 9 2.4 6.3 2.4 2.5 2.5-2.1 2.4-7 2.4-11.3 2.4-14.9 2.4-17.2 2.4-18.1 2.4-17.3 2.4-15.4 2.4-12.2 2.5-8.3-.7-2.5-2.5 8.4-2.4 12.2-2.4 15.3-2.4 17.1-2.4 17.6-2.4 16.8-2.4 14.6-2.4 11.2-2.5 7.1-2.4 2.7-2.4-1.6-2.4-5.2-2.4-8-2.4-9.6-2.4-9.9-2.4-9.3-2.4-7.6-2.5-5.5-2.4-3.2-2.4-.8-2.4 1.1-2.4 2.7-2.4 3.8-2.4 4.5-2.4 4.6-2.4 4.5-2.5 4-2.4 3-2.4 1.8-2.4 0-2.4-1.9-2.4-4-2.4-6.1-2.4-7.9-2.4-9-2.5-9.3-2.4-8.4-2.4-6.5-2.4-3.5-2.4 .4-2.4 4.7-2.4 9-2.4 12.7-2.5 15.7-2.4 17.2-2.4 17.4-2.4 16.2-2.4 13.6-2.4 9.9-2.4 5.5z"/><path class="r" d="M35.3 -23.5l1.2-2.1 1.2-3.4 1.2-4.4 1.2-5.5 1.2-6.4 1.2-7.2 1.2-7.9 1.2-8.3 1.2-8.6 1.2-8.8 1.2-8.7 1.2-8.5 1.3-8.1 1.2-7.6 1.2-6.8 1.2-5.9 1.2-5 1.2-4 1.2-2.9 1.2-1.8 1.2-.7 1.2 .3 1.2 1.3 1.2 2.2 1.2 2.9 1.2 3.6 1.2 4 1.2 4.4 1.2 4.7 1.3 4.6 1.2 4.6 1.2 4.4 1.2 4.2 1.2 3.7 1.2 3.3 1.2 2.8 1.2 2.3 1.2 1.7 1.2 1.2 1.2 .7 1.2 .2 1.2-.2 1.2-.7 1.2-1.1 1.2-1.3 1.2-1.7 1.2-1.9 1.3-2.1 1.2-2.2 1.2-2.3 1.2-2.3 1.2-2.3 1.2-2.3 1.2-2.2 1.2-2 1.2-1.8 1.2-1.5 1.2-1.2 1.2-.8 1.2-.3 1.2 .1 1.2 .7 1.2 1.3 1.2 1.9 1.3 2.4 1.2 3.1 1.2 3.6 1.2 4 1.2 4.5 1.2 4.8 1.2 4.9 1.2 5 1.2 4.9 1.2 4.7 1.2 4.3 1.2 3.7 1.2 3 1.2 2.2 1.2 1.3 1.2 .3 1.2-.8 1.2-1.9 1.3-3 1.2-4.1 1.2-5.1 1.2-6.1 1.2-7 1.2-7.6 1.2-8.2 1.2-8.6 1.2-8.8 1.2-8.8 1.2-8.7 1.2-8.4 1.2-8 1.2-7.3 1.2-6.5 1.2-5.7 1.2-4.7 1.3-3.7"/><path class="c" d="M155.9 -181.5m0 0l.7 2.5m-2 1.2l.8 2.4m-2 2.3l.7 2.4m-1.9 3.3l.7 2.4m-1.9 4.1l.7 2.4m-1.9 4.9l.7 2.5m-1.9 5.5l.7 2.5m-1.9 5.9l.7 2.6m-1.9 6.1l.7 2.7m-1.9 6.1l.7 3m-1.9 5.8l.7 3.2m-1.9 5.4l.7 3.4m-1.9 4.8l.7 3.6m-1.9 4l.7 3.8m-1.9 3.2l.7 3.9m-1.9 2.2l.7 4m-1.9 1.1l.7 4m-1.9 .1l.7 4m-2-1l.8 3.9m-2-2l.8 3.6m-2-2.8l.7 3.3m-1.9-3.6l.7 2.9m-1.9-4.2l.7 2.4m-1.9-4.6l.7 1.9m-1.9-4.9l.7 1.3m-1.9-5l.7 .8m-1.9-5.1l.7 .3m-1.9-5l.7-.1m-1.9-4.8l.7-.5m-1.9-4.5l.7-.8m-1.9-4.1l.7-1.1m-1.9-3.7l.7-1.1m-1.9-3.4l.7-1m-1.9-3l.7-.9m-1.9-2.7l.7-.6m-1.9-2.5l.7-.2m-2-2.2l.8 .1m-2-2l.7 .6m-1.9-1.9l.7 1.1m-1.9-1.8l.7 1.6m-1.9-1.7l.7 2m-1.9-1.7l.7 2.4m-1.9-1.6l.7 2.7m-1.9-1.5l.7 2.9m-1.9-1.4l.7 3.1m-1.9-1.3l.7 3.1m-1.9-1.1l.7 3m-1.9-.8l.7 2.8m-1.9-.5l.7 2.5m-1.9-.2l.7 2.3m-1.9 0l.7 1.9m-1.9 .4l.7 1.5m-1.9 .7l.7 1.2m-2 .9l.8 .8m-2 1.1l.8 .4m-2 1.3l.7 .1m-1.9 1.2l.7 0m-1.9 1.1l.7-.1m-1.9 .8l.7-.2m-1.9 .4l.7 0m-1.9-.2l.7 .1m-1.9-.8l.7 .3m-1.9-1.5l.7 .6m-1.9-2.3l.7 .8m-1.9-3.1l.7 1.1m-1.9-3.9l.7 1.3m-1.9-4.6l.7 1.6m-1.9-5.3l.7 1.7m-1.9-5.9l.7 1.9m-1.9-6.3l.7 2m-1.9-6.6l.7 2m-2-6.6l.8 1.9m-2-6.6l.7 1.9m-1.9-6.3l.7 1.8m-1.9-5.8l.7 1.6m-1.9-5.2l.7 1.4m-1.9-4.3l.7 1.3m-1.9-3.5l.7 1.2m-1.9-2.5l.7 1.2m-1.9-1.5l.7 1.2m-1.9-.5l.7 1.3m-1.9 .5l.7 1.4m-1.9 1.5l.7 1.7m-1.9 2.3l.7 1.9m-1.9 3.1l.7 2.3m-1.9 3.6l.7 2.8m-1.9 4l.7 3.2m-1.9 4.4l.7 3.6m-2 4.5l.8 4m-2 4.5l.8 4.4m-2 4.3l.7 4.7m-1.9 4.1l.7 4.8m-1.9 3.8l.7 4.9m-1.9 3.4l.7 4.9m-1.9 3l.7 4.7m-1.9 2.5l.7 4.3m-1.9 2.1l.7 3.9m-1.9 1.6l.7 3.3m-1.9 1.1l.7 2.8m-1.9 .6l.7 2m-1.9 .1l.7 1.3"/><path class="s" d="M63.7 -143.3L63 -144.5M85.4 -89L84.7 -89M111.9 -116.5L111.2 -117.1M128.8 -60.4L128.1 -62.3M110 -118.4L111.2 -117.1M126.9 -65.3L128.1 -62.3"/></g>
<g transform="translate(330.2 252)"><path class="fgR" d="M36 -22.7l2.4-2.6 2.4-7.5 2.4-12.1 2.4-15.6 2.5-17.8 2.4-18.4 2.4-17.3 2.4-14.4 2.4-10.3 2.4-5.5 2.4-.6 2.4 3.7 2.4 7 2.5 9 2.4 9.5 2.4 8.8 2.4 7.2 2.4 5.1 2.4 2.9 2.4 1.1 2.4-.5 2.4-1.5 2.5-2.2 2.4-2.6 2.4-2.9 2.4-3.3 2.4-3.6 2.4-3.7 2.4-3.4 2.4-2.5 2.5-1 2.4 1.3 2.4 4 2.4 6.8 2.4 9.3 2.4 10.8 2.4 11.2 2.4 10.1 2.4 7.3 2.5 3.3 2.4-1.6 2.4-6.7 2.4-11.4 2.4-15.2 2.4-17.6 2.4-18.3 2.4-17.6 2.4-15.4 2.5-12.1 2.4-8.3-.7-2.7-2.5 8.3-2.4 12.2-2.4 15.4-2.4 17.3-2.4 18.1-2.4 17.2-2.4 14.9-2.4 11.3-2.4 7-2.5 2.1-2.4-2.5-2.4-6.3-2.4-9-2.4-10.4-2.4-10.5-2.4-9.2-2.4-7.2-2.4-4.8-2.5-2.2-2.4 .1-2.4 1.8-2.4 3.1-2.4 3.7-2.4 4-2.4 4-2.4 3.8-2.4 3.2-2.5 2.6-2.4 1.6-2.4 .3-2.4-1.4-2.4-3.5-2.4-5.6-2.4-7.6-2.4-8.9-2.5-9.4-2.4-8.7-2.4-6.8-2.4-3.6-2.4 .5-2.4 5.1-2.4 9.6-2.4 13.6-2.4 16.5-2.5 17.9-2.4 17.6-2.4 16-2.4 12.8-2.4 8.8-2.4 4z"/><path class="r" d="M35.3 -23.7l1.2-1.4 1.2-2.6 1.2-3.9 1.2-4.9 1.2-6 1.2-6.8 1.2-7.7 1.2-8.3 1.2-8.7 1.2-8.9 1.3-9 1.2-8.9 1.2-8.5 1.2-8 1.2-7.2 1.2-6.4 1.2-5.4 1.2-4.2 1.2-3.2 1.2-1.9 1.2-.8 1.2 .3 1.2 1.3 1.2 2.3 1.2 3 1.2 3.8 1.2 4.2 1.2 4.5 1.3 4.7 1.2 4.7 1.2 4.6 1.2 4.3 1.2 4 1.2 3.6 1.2 3 1.2 2.6 1.2 2 1.2 1.5 1.2 .9 1.2 .5 1.2 .1 1.2-.4 1.2-.6 1.2-1 1.2-1.2 1.3-1.4 1.2-1.5 1.2-1.7 1.2-1.9 1.2-1.9 1.2-1.9 1.2-2.1 1.2-2 1.2-2 1.2-1.9 1.2-1.8 1.2-1.7 1.2-1.4 1.2-1.1 1.2-.7 1.2-.3 1.2 .2 1.2 .8 1.3 1.4 1.2 2.1 1.2 2.7 1.2 3.3 1.2 3.9 1.2 4.4 1.2 4.8 1.2 5.2 1.2 5.3 1.2 5.3 1.2 5.1 1.2 4.8 1.2 4.2 1.2 3.6 1.2 2.7 1.2 1.8 1.2 .7 1.3-.5 1.2-1.6 1.2-2.9 1.2-4.1 1.2-5.1 1.2-6.2 1.2-7.1 1.2-7.8 1.2-8.4 1.2-8.8 1.2-9 1.2-9.1 1.2-8.8 1.2-8.5 1.2-8 1.2-7.4 1.2-6.5 1.2-5.7 1.3-4.7 1.2-3.6"/><path class="c" d="M155.9 -180.5m0 0l.7 2.7m-1.9 .9l.7 2.7m-2 2l.8 2.7m-2 3l.8 2.6m-2 3.9l.7 2.6m-1.9 4.8l.7 2.6m-1.9 5.4l.7 2.6m-1.9 5.9l.7 2.7m-1.9 6.1l.7 2.9m-1.9 6.2l.7 3m-1.9 6l.7 3.1m-1.9 5.7l.7 3.3m-1.9 5.1l.7 3.5m-1.9 4.3l.7 3.7m-1.9 3.4l.7 3.8m-1.9 2.4l.7 3.8m-1.9 1.3l.7 3.9m-1.9 .2l.7 3.8m-1.9-.9l.7 3.6m-1.9-2l.7 3.4m-2-2.9l.8 3.1m-2-3.8l.7 2.7m-1.9-4.5l.7 2.3m-1.9-5l.7 1.8m-1.9-5.4l.7 1.3m-1.9-5.5l.7 .7m-1.9-5.5l.7 .2m-1.9-5.3l.7-.2m-1.9-5.1l.7-.6m-1.9-4.7l.7-.8m-1.9-4.4l.7-.9m-1.9-3.9l.7-1m-1.9-3.4l.7-1m-1.9-2.9l.7-.8m-1.9-2.5l.7-.6m-1.9-2.1l.7-.2m-1.9-1.9l.7 .2m-2-1.6l.8 .7m-2-1.5l.8 1.1m-2-1.3l.7 1.6m-1.9-1.3l.7 2m-1.9-1.3l.7 2.4m-1.9-1.3l.7 2.7m-1.9-1.3l.7 2.9m-1.9-1.2l.7 3m-1.9-1.2l.7 3m-1.9-1.1l.7 3m-1.9-1l.7 2.8m-1.9-.8l.7 2.6m-1.9-.5l.7 2.2m-1.9-.3l.7 1.9m-1.9 0l.7 1.5m-1.9 .4l.7 1m-1.9 .7l.7 .7m-1.9 .8l.7 .4m-2 1l.8 .2m-2 1l.7 0m-1.9 1l.7-.1m-1.9 .7l.7-.1m-1.9 .5l.7-.1m-1.9 0l.7 .1m-1.9-.6l.7 .3m-1.9-1.2l.7 .4m-1.9-1.9l.7 .7m-1.9-2.7l.7 1m-1.9-3.6l.7 1.3m-1.9-4.3l.7 1.5m-1.9-5.1l.7 1.7m-1.9-5.7l.7 1.9m-1.9-6.2l.7 2m-1.9-6.6l.7 2m-1.9-6.7l.7 2m-2-6.7l.8 1.9m-2-6.4l.7 1.8m-1.9-6l.7 1.6m-1.9-5.4l.7 1.6m-1.9-4.6l.7 1.4m-1.9-3.7l.7 1.4m-1.9-2.7l.7 1.3m-1.9-1.6l.7 1.3m-1.9-.5l.7 1.4m-1.9 .5l.7 1.7m-1.9 1.5l.7 1.8m-1.9 2.4l.7 2.2m-1.9 3.2l.7 2.5m-1.9 3.9l.7 2.9m-1.9 4.3l.7 3.3m-1.9 4.7l.7 3.7m-1.9 4.8l.7 4.1m-1.9 4.8l.7 4.3m-2 4.7l.8 4.6m-2 4.3l.7 4.8m-1.9 3.9l.7 4.8m-1.9 3.5l.7 4.7m-1.9 3l.7 4.4m-1.9 2.4l.7 4.2m-1.9 1.8l.7 3.7m-1.9 1.2l.7 3.1m-1.9 .8l.7 2.4m-1.9 .2l.7 1.7m-1.9-.3l.7 1"/><path class="s" d="M64.9 -141.1L64.2 -142.5M85.4 -90.6L84.7 -90.5M112 -117.3L111.2 -118M128.8 -60.1L128.1 -61.9M63 -144.8L64.2 -142.5"/></g>
<g transform="translate(330.9 253.5)"><path class="fgR" d="M36 -23.4l2.4-1.2 2.4-6.3 2.4-11.2 2.4-15.3 2.5-17.9 2.4-18.9 2.4-17.8 2.4-15.2 2.4-10.9 2.4-5.8 2.4-.8 2.4 3.8 2.5 7.2 2.4 9.1 2.4 9.5 2.4 8.6 2.4 6.9 2.4 4.6 2.4 2.4 2.4 .6 2.4-.6 2.5-1.4 2.4-1.7 2.4-2 2.4-2.2 2.4-2.7 2.4-3.1 2.4-3.7 2.4-3.7 2.4-3.1 2.5-1.8 2.4 .4 2.4 3.2 2.4 6.4 2.4 9.3 2.4 11.2 2.4 11.9 2.4 11 2.5 8.3 2.4 4.1 2.4-1 2.4-6.5 2.4-11.4 2.4-15.4 2.4-17.8 2.4-18.6 2.4-17.7 2.5-15.5 2.4-12.1 2.4-8.2-.7-2.9-2.4 8.3-2.5 12.1-2.4 15.4-2.4 17.6-2.4 18.3-2.4 17.6-2.4 15.2-2.4 11.4-2.4 6.7-2.4 1.6-2.5-3.3-2.4-7.3-2.4-10.1-2.4-11.2-2.4-10.8-2.4-9.3-2.4-6.8-2.4-4-2.4-1.3-2.5 1-2.4 2.5-2.4 3.4-2.4 3.7-2.4 3.6-2.4 3.3-2.4 2.9-2.4 2.6-2.5 2.2-2.4 1.5-2.4 .5-2.4-1.1-2.4-2.9-2.4-5.1-2.4-7.2-2.4-8.8-2.4-9.5-2.5-9-2.4-7-2.4-3.7-2.4 .6-2.4 5.5-2.4 10.3-2.4 14.4-2.4 17.3-2.4 18.4-2.5 17.8-2.4 15.6-2.4 12.1-2.4 7.5-2.4 2.6z"/><path class="r" d="M35.3 -24.2l1.2-.7 1.2-1.9 1.2-3.2 1.2-4.3 1.2-5.5 1.2-6.6 1.2-7.4 1.2-8.2 1.2-8.7 1.3-9.1 1.2-9.3 1.2-9.1 1.2-8.9 1.2-8.4 1.2-7.6 1.2-6.8 1.2-5.7 1.2-4.6 1.2-3.3 1.2-2.2 1.2-.9 1.2 .3 1.2 1.4 1.2 2.3 1.2 3.2 1.2 3.8 1.2 4.4 1.3 4.6 1.2 4.8 1.2 4.7 1.2 4.6 1.2 4.2 1.2 3.8 1.2 3.4 1.2 2.8 1.2 2.3 1.2 1.7 1.2 1.2 1.2 .8 1.2 .3 1.2-.1 1.2-.4 1.2-.6 1.2-.9 1.3-1 1.2-1.2 1.2-1.2 1.2-1.4 1.2-1.4 1.2-1.5 1.2-1.6 1.2-1.7 1.2-1.8 1.2-1.8 1.2-1.9 1.2-1.8 1.2-1.8 1.2-1.6 1.2-1.4 1.2-1.1 1.2-.7 1.3-.3 1.2 .4 1.2 .9 1.2 1.7 1.2 2.3 1.2 3.1 1.2 3.7 1.2 4.4 1.2 4.9 1.2 5.3 1.2 5.5 1.2 5.7 1.2 5.5 1.2 5.3 1.2 4.8 1.2 4.1 1.2 3.2 1.2 2.2 1.3 1.1 1.2-.2 1.2-1.4 1.2-2.7 1.2-4 1.2-5.2 1.2-6.2 1.2-7.2 1.2-8 1.2-8.6 1.2-9 1.2-9.1 1.2-9.2 1.2-9 1.2-8.6 1.2-8 1.2-7.4 1.3-6.5 1.2-5.6 1.2-4.7 1.2-3.6"/><path class="c" d="M155.9 -179.3m0 0l.7 2.9m-1.9 .7l.7 2.9m-1.9 1.8l.7 2.8m-1.9 2.8l.7 2.8m-2 3.7l.8 2.8m-2 4.6l.7 2.8m-1.9 5.2l.7 2.9m-1.9 5.7l.7 2.9m-1.9 6.1l.7 3m-1.9 6.2l.7 3.1m-1.9 6l.7 3.3m-1.9 5.7l.7 3.4m-1.9 5.2l.7 3.5m-1.9 4.5l.7 3.6m-1.9 3.6l.7 3.7m-1.9 2.5l.7 3.8m-1.9 1.4l.7 3.7m-1.9 .3l.7 3.6m-1.9-.9l.7 3.5m-1.9-2.1l.7 3.2m-1.9-3l.7 2.9m-2-4l.8 2.5m-2-4.7l.8 2.1m-2-5.3l.7 1.6m-1.9-5.7l.7 1.1m-1.9-5.9l.7 .6m-1.9-5.9l.7 .2m-1.9-5.7l.7-.2m-1.9-5.5l.7-.5m-1.9-5l.7-.8m-1.9-4.5l.7-.9m-1.9-4l.7-1m-1.9-3.4l.7-.9m-1.9-2.8l.7-.8m-1.9-2.3l.7-.5m-1.9-1.8l.7-.2m-1.9-1.5l.7 .3m-1.9-1.2l.7 .7m-1.9-1.1l.7 1.2m-2-.9l.8 1.6m-2-.9l.7 2m-1.9-.9l.7 2.3m-1.9-.9l.7 2.6m-1.9-1l.7 2.9m-1.9-1.1l.7 2.9m-1.9-1.1l.7 3m-1.9-1.1l.7 2.9m-1.9-1.1l.7 2.7m-1.9-.9l.7 2.4m-1.9-.7l.7 2.1m-1.9-.5l.7 1.8m-1.9-.3l.7 1.4m-1.9 0l.7 1.1m-1.9 .3l.7 .7m-1.9 .5l.7 .5m-1.9 .7l.7 .2m-2 .8l.8 0m-2 .9l.7-.2m-1.9 .8l.7-.1m-1.9 .5l.7-.1m-1.9 .2l.7 0m-1.9-.3l.7 .2m-1.9-1l.7 .5m-1.9-1.7l.7 .7m-1.9-2.4l.7 1m-1.9-3.3l.7 1.2m-1.9-4l.7 1.5m-1.9-4.9l.7 1.7m-1.9-5.5l.7 1.8m-1.9-6l.7 1.9m-1.9-6.5l.7 2m-1.9-6.7l.7 2m-1.9-6.8l.7 2m-2-6.6l.8 1.9m-2-6.3l.8 1.9m-2-5.7l.7 1.7m-1.9-4.9l.7 1.7m-1.9-4l.7 1.6m-1.9-3l.7 1.6m-1.9-1.9l.7 1.7m-1.9-.8l.7 1.8m-1.9 .4l.7 1.9m-1.9 1.4l.7 2.1m-1.9 2.5l.7 2.4m-1.9 3.3l.7 2.7m-1.9 4.1l.7 3.1m-1.9 4.5l.7 3.5m-1.9 4.9l.7 3.8m-1.9 5.1l.7 4m-1.9 5.1l.7 4.4m-1.9 4.9l.7 4.5m-2 4.6l.8 4.6m-2 4.1l.7 4.6m-1.9 3.6l.7 4.5m-1.9 2.9l.7 4.3m-1.9 2.3l.7 3.8m-1.9 1.7l.7 3.4m-1.9 .9l.7 2.9m-1.9 .3l.7 2.2m-1.9-.3l.7 1.5m-1.9-.8l.7 .8"/><path class="s" d="M64.9 -140.9L64.2 -142.6M83 -92.1L82.3 -92.3M113.2 -117.6L112.5 -117.9M130.1 -56.3L129.3 -58.4M82.3 -92.3L83.5 -92M83.5 -92L84.7 -92.1M111.3 -118.8L112.5 -117.9M128.1 -61.6L129.3 -58.4"/></g>
<g transform="translate(331.6 255)"><path class="fgR" d="M36 -24.5l2.4 .2 2.4-5.1 2.4-10.3 2.5-14.8 2.4-17.9 2.4-19.2 2.4-18.4 2.4-15.7 2.4-11.5 2.4-6.2 2.4-1 2.4 3.8 2.5 7.3 2.4 9.2 2.4 9.5 2.4 8.4 2.4 6.5 2.4 4.1 2.4 1.9 2.4 .3 2.5-.8 2.4-1.3 2.4-1.3 2.4-1.3 2.4-1.6 2.4-2 2.4-2.8 2.4-3.5 2.4-4 2.5-3.7 2.4-2.7 2.4-.4 2.4 2.6 2.4 5.9 2.4 9.2 2.4 11.6 2.4 12.6 2.4 11.8 2.5 9.1 2.4 4.9 2.4-.4 2.4-6.1 2.4-11.4 2.4-15.5 2.4-18 2.4-18.8 2.5-17.8 2.4-15.4 2.4-12.1 2.4-8.2-.7-3.1-2.4 8.2-2.4 12.1-2.5 15.5-2.4 17.7-2.4 18.6-2.4 17.8-2.4 15.4-2.4 11.4-2.4 6.5-2.4 1-2.4-4.1-2.5-8.3-2.4-11-2.4-11.9-2.4-11.2-2.4-9.3-2.4-6.4-2.4-3.2-2.4-.4-2.5 1.8-2.4 3.1-2.4 3.7-2.4 3.7-2.4 3.1-2.4 2.7-2.4 2.2-2.4 2-2.4 1.7-2.5 1.4-2.4 .6-2.4-.6-2.4-2.4-2.4-4.6-2.4-6.9-2.4-8.6-2.4-9.5-2.4-9.1-2.5-7.2-2.4-3.8-2.4 .8-2.4 5.8-2.4 10.9-2.4 15.2-2.4 17.8-2.4 18.9-2.5 17.9-2.4 15.3-2.4 11.2-2.4 6.3-2.4 1.2z"/><path class="r" d="M35.3 -24.9l1.2 0 1.2-1.2 1.2-2.5 1.2-3.8 1.2-5.1 1.2-6.1 1.2-7.2 1.2-8.1 1.3-8.7 1.2-9.2 1.2-9.4 1.2-9.5 1.2-9.1 1.2-8.7 1.2-8 1.2-7.2 1.2-6 1.2-4.9 1.2-3.5 1.2-2.3 1.2-1 1.2 .2 1.2 1.4 1.2 2.4 1.2 3.2 1.3 4 1.2 4.4 1.2 4.7 1.2 4.8 1.2 4.7 1.2 4.5 1.2 4.1 1.2 3.7 1.2 3.2 1.2 2.5 1.2 2.1 1.2 1.4 1.2 1 1.2 .5 1.2 .1 1.2-.2 1.2-.4 1.2-.7 1.3-.7 1.2-.8 1.2-.9 1.2-1 1.2-1 1.2-1.1 1.2-1.1 1.2-1.3 1.2-1.4 1.2-1.5 1.2-1.6 1.2-1.8 1.2-1.9 1.2-1.8 1.2-1.9 1.2-1.7 1.2-1.4 1.3-1.1 1.2-.7 1.2-.1 1.2 .5 1.2 1.2 1.2 2 1.2 2.8 1.2 3.6 1.2 4.3 1.2 5 1.2 5.4 1.2 5.8 1.2 6 1.2 5.9 1.2 5.7 1.2 5.3 1.2 4.6 1.3 3.7 1.2 2.6 1.2 1.5 1.2 .1 1.2-1.1 1.2-2.6 1.2-3.9 1.2-5.1 1.2-6.3 1.2-7.3 1.2-8.1 1.2-8.7 1.2-9.1 1.2-9.3 1.2-9.3 1.2-9.1 1.2-8.6 1.2-8.1 1.3-7.4 1.2-6.5 1.2-5.6 1.2-4.6 1.2-3.6"/><path class="c" d="M155.9 -177.9m0 0l.7 3.1m-1.9 .5l.7 3.1m-1.9 1.5l.7 3.1m-1.9 2.5l.7 3.1m-1.9 3.4l.7 3.1m-2 4.3l.8 3m-2 5.1l.8 3m-2 5.6l.7 3.1m-1.9 6l.7 3.1m-1.9 6.2l.7 3.2m-1.9 6.1l.7 3.3m-1.9 5.8l.7 3.4m-1.9 5.3l.7 3.5m-1.9 4.6l.7 3.6m-1.9 3.7l.7 3.6m-1.9 2.7l.7 3.6m-1.9 1.5l.7 3.6m-1.9 .3l.7 3.4m-1.9-.8l.7 3.2m-1.9-2.1l.7 3m-1.9-3.1l.7 2.6m-1.9-4.1l.7 2.3m-1.9-4.9l.7 1.8m-2-5.5l.8 1.4m-2-6l.7 1m-1.9-6.3l.7 .6m-1.9-6.3l.7 .2m-1.9-6.1l.7-.2m-1.9-5.8l.7-.5m-1.9-5.3l.7-.7m-1.9-4.7l.7-.9m-1.9-4.1l.7-.8m-1.9-3.5l.7-.8m-1.9-2.8l.7-.6m-1.9-2.2l.7-.3m-1.9-1.7l.7 0m-1.9-1.2l.7 .3m-1.9-.8l.7 .7m-1.9-.6l.7 1.1m-1.9-.4l.7 1.5m-2-.4l.8 2m-2-.6l.7 2.4m-1.9-.7l.7 2.6m-1.9-.7l.7 2.7m-1.9-.9l.7 2.9m-1.9-1l.7 2.9m-1.9-1.1l.7 2.7m-1.9-1.1l.7 2.6m-1.9-1.1l.7 2.4m-1.9-1l.7 2.1m-1.9-.8l.7 1.7m-1.9-.6l.7 1.4m-1.9-.3l.7 1.1m-1.9-.1l.7 .7m-1.9 .3l.7 .4m-1.9 .5l.7 .2m-1.9 .6l.7 0m-2 .7l.8 0m-2 .7l.8-.1m-2 .5l.7-.1m-1.9 .3l.7 .1m-1.9-.2l.7 .2m-1.9-.7l.7 .4m-1.9-1.4l.7 .7m-1.9-2.1l.7 .9m-1.9-3l.7 1.2m-1.9-3.7l.7 1.4m-1.9-4.6l.7 1.6m-1.9-5.3l.7 1.8m-1.9-5.9l.7 1.9m-1.9-6.4l.7 2m-1.9-6.7l.7 2m-1.9-6.8l.7 2m-1.9-6.7l.7 2m-1.9-6.4l.7 1.9m-2-5.9l.8 1.9m-2-5.1l.7 1.8m-1.9-4.2l.7 1.8m-1.9-3.2l.7 1.8m-1.9-2l.7 1.9m-1.9-.9l.7 2m-1.9 .3l.7 2.1m-1.9 1.4l.7 2.4m-1.9 2.5l.7 2.6m-1.9 3.4l.7 3m-1.9 4.2l.7 3.2m-1.9 4.8l.7 3.5m-1.9 5.2l.7 3.8m-1.9 5.3l.7 4.1m-1.9 5.4l.7 4.3m-1.9 5.1l.7 4.4m-1.9 4.8l.7 4.5m-2 4.2l.8 4.4m-2 3.7l.8 4.2m-2 3l.7 3.9m-1.9 2.2l.7 3.6m-1.9 1.5l.7 3m-1.9 .8l.7 2.5m-1.9 0l.7 1.8m-1.9-.6l.7 1.2m-1.9-1.2l.7 .4"/><path class="s" d="M64.9 -140.6L64.2 -142.4M80.6 -94.4L79.9 -95.1M113.2 -118.8L112.5 -119.1M130.1 -56L129.4 -57.8M79.9 -95.1L81.1 -94.1M81.1 -94.1L82.3 -93.6"/></g>
<g transform="translate(332.3 256.5)"><path class="fgR" d="M36 -25.8l2.4 1.6 2.4-3.9 2.5-9.4 2.4-14.3 2.4-17.8 2.4-19.4 2.4-18.9 2.4-16.2 2.4-11.9 2.4-6.6 2.4-1.1 2.5 3.7 2.4 7.3 2.4 9.1 2.4 9.4 2.4 8.2 2.4 6.1 2.4 3.6 2.4 1.5 2.4-.1 2.5-.9 2.4-1.1 2.4-.9 2.4-.8 2.4-.8 2.4-1.5 2.4-2.4 2.4-3.4 2.5-4.3 2.4-4.3 2.4-3.4 2.4-1.2 2.4 1.9 2.4 5.6 2.4 9.1 2.4 11.9 2.4 13.1 2.5 12.6 2.4 9.9 2.4 5.7 2.4 .1 2.4-5.7 2.4-11.3 2.4-15.5 2.4-18.1 2.4-18.9 2.5-17.8 2.4-15.4 2.4-12 2.4-8.3-.7-3.3-2.4 8.2-2.4 12.1-2.4 15.4-2.5 17.8-2.4 18.8-2.4 18-2.4 15.5-2.4 11.4-2.4 6.1-2.4 .4-2.4-4.9-2.5-9.1-2.4-11.8-2.4-12.6-2.4-11.6-2.4-9.2-2.4-5.9-2.4-2.6-2.4 .4-2.4 2.7-2.5 3.7-2.4 4-2.4 3.5-2.4 2.8-2.4 2-2.4 1.6-2.4 1.3-2.4 1.3-2.4 1.3-2.5 .8-2.4-.3-2.4-1.9-2.4-4.1-2.4-6.5-2.4-8.4-2.4-9.5-2.4-9.2-2.5-7.3-2.4-3.8-2.4 1-2.4 6.2-2.4 11.5-2.4 15.7-2.4 18.4-2.4 19.2-2.4 17.9-2.5 14.8-2.4 10.3-2.4 5.1-2.4-.2z"/><path class="r" d="M35.3 -26l1.2 .8 1.2-.6 1.2-1.8 1.2-3.3 1.2-4.5 1.2-5.8 1.3-6.9 1.2-7.9 1.2-8.6 1.2-9.3 1.2-9.5 1.2-9.7 1.2-9.4 1.2-9 1.2-8.3 1.2-7.4 1.2-6.4 1.2-5.1 1.2-3.8 1.2-2.4 1.2-1.1 1.2 .1 1.2 1.4 1.2 2.4 1.3 3.3 1.2 4 1.2 4.5 1.2 4.7 1.2 4.8 1.2 4.7 1.2 4.4 1.2 4 1.2 3.5 1.2 3 1.2 2.3 1.2 1.8 1.2 1.2 1.2 .7 1.2 .3 1.2 0 1.2-.4 1.3-.4 1.2-.6 1.2-.7 1.2-.6 1.2-.7 1.2-.7 1.2-.6 1.2-.8 1.2-.8 1.2-.9 1.2-1.1 1.2-1.3 1.2-1.5 1.2-1.6 1.2-1.9 1.2-2 1.2-2 1.2-1.9 1.3-1.8 1.2-1.6 1.2-1.1 1.2-.5 1.2 .1 1.2 .9 1.2 1.7 1.2 2.5 1.2 3.4 1.2 4.3 1.2 4.9 1.2 5.6 1.2 6 1.2 6.3 1.2 6.3 1.2 6.1 1.2 5.7 1.3 5 1.2 4.1 1.2 3.1 1.2 1.8 1.2 .5 1.2-.9 1.2-2.4 1.2-3.7 1.2-5.1 1.2-6.3 1.2-7.3 1.2-8.2 1.2-8.8 1.2-9.2 1.2-9.4 1.2-9.4 1.2-9.1 1.3-8.7 1.2-8.1 1.2-7.3 1.2-6.5 1.2-5.6 1.2-4.6 1.2-3.6"/><path class="c" d="M155.9 -176.3m0 0l.7 3.3m-1.9 .3l.7 3.3m-1.9 1.3l.7 3.4m-1.9 2.2l.7 3.3m-1.9 3.2l.7 3.3m-1.9 4l.7 3.3m-1.9 4.8l.7 3.3m-2 5.4l.8 3.3m-2 5.8l.7 3.3m-1.9 6.1l.7 3.3m-1.9 6.1l.7 3.4m-1.9 5.8l.7 3.5m-1.9 5.3l.7 3.5m-1.9 4.7l.7 3.5m-1.9 3.8l.7 3.5m-1.9 2.8l.7 3.5m-1.9 1.6l.7 3.4m-1.9 .3l.7 3.3m-1.9-.9l.7 3m-1.9-2.1l.7 2.8m-1.9-3.3l.7 2.5m-1.9-4.3l.7 2.1m-1.9-5.2l.7 1.7m-1.9-5.8l.7 1.3m-2-6.3l.8 .9m-2-6.6l.7 .5m-1.9-6.6l.7 .1m-1.9-6.4l.7-.2m-1.9-6.1l.7-.4m-1.9-5.6l.7-.6m-1.9-5l.7-.7m-1.9-4.2l.7-.8m-1.9-3.5l.7-.6m-1.9-2.8l.7-.5m-1.9-2l.7-.3m-1.9-1.4l.7 0m-1.9-.9l.7 .4m-1.9-.5l.7 .8m-1.9-.3l.7 1.2m-1.9-.1l.7 1.6m-1.9 0l.7 1.9m-2-.1l.8 2.2m-2-.3l.8 2.5m-2-.5l.7 2.7m-1.9-.7l.7 2.8m-1.9-.9l.7 2.7m-1.9-1.1l.7 2.7m-1.9-1.2l.7 2.6m-1.9-1.3l.7 2.3m-1.9-1.2l.7 2m-1.9-1.1l.7 1.8m-1.9-1l.7 1.4m-1.9-.6l.7 1m-1.9-.4l.7 .8m-1.9-.1l.7 .5m-1.9 .2l.7 .2m-1.9 .4l.7 .1m-1.9 .6l.7 0m-1.9 .6l.7-.1m-2 .5l.8 0m-2 .4l.7 0m-1.9 0l.7 .2m-1.9-.5l.7 .4m-1.9-1.1l.7 .6m-1.9-1.8l.7 .8m-1.9-2.6l.7 1.1m-1.9-3.4l.7 1.3m-1.9-4.3l.7 1.5m-1.9-5l.7 1.7m-1.9-5.7l.7 1.8m-1.9-6.2l.7 1.9m-1.9-6.6l.7 2m-1.9-6.8l.7 2m-1.9-6.7l.7 2m-1.9-6.5l.7 2.1m-1.9-6.1l.7 2.1m-2-5.4l.8 2.1m-2-4.5l.8 2.1m-2-3.5l.7 2.2m-1.9-2.3l.7 2.1m-1.9-1l.7 2.3m-1.9 .1l.7 2.5m-1.9 1.3l.7 2.7m-1.9 2.4l.7 2.9m-1.9 3.5l.7 3.1m-1.9 4.3l.7 3.4m-1.9 4.9l.7 3.6m-1.9 5.4l.7 3.9m-1.9 5.5l.7 4.1m-1.9 5.6l.7 4.2m-1.9 5.3l.7 4.3m-1.9 5l.7 4.3m-1.9 4.3l.7 4.2m-1.9 3.7l.7 4m-2 2.9l.8 3.7m-2 2.1l.7 3.3m-1.9 1.2l.7 2.8m-1.9 .5l.7 2.1m-1.9-.3l.7 1.6m-1.9-1l.7 .8m-1.9-1.6l.7 .2"/><path class="s" d="M37.2 -24.4L36.5 -25.2M66.2 -136.7L65.5 -138.8M79.4 -96.3L78.7 -97.1M113.2 -119.9L112.5 -120.3M131.3 -52.3L130.6 -54.4M35.3 -26L36.5 -25.2M64.2 -142.1L65.5 -138.8M78.7 -97.1L79.9 -95.9M129.4 -57.5L130.6 -54.4"/></g>
<g transform="translate(333 258)"><path class="fgR" d="M36 -27.5l2.4 3 2.4-2.7 2.5-8.4 2.4-13.7 2.4-17.6 2.4-19.5 2.4-19.2 2.4-16.6 2.4-12.4 2.4-6.9 2.5-1.4 2.4 3.6 2.4 7.2 2.4 9.1 2.4 9.2 2.4 7.9 2.4 5.7 2.4 3.2 2.4 1.1 2.5-.4 2.4-1 2.4-.9 2.4-.6 2.4-.2 2.4-.2 2.4-1 2.4-2 2.4-3.4 2.5-4.5 2.4-4.8 2.4-4 2.4-2 2.4 1.3 2.4 5.2 2.4 9 2.4 12.1 2.5 13.6 2.4 13.2 2.4 10.7 2.4 6.4 2.4 .7 2.4-5.4 2.4-11 2.4-15.4 2.4-18.1 2.5-18.9 2.4-17.8 2.4-15.3 2.4-12.1 2.4-8.3-.7-3.5-2.4 8.3-2.4 12-2.4 15.4-2.5 17.8-2.4 18.9-2.4 18.1-2.4 15.5-2.4 11.3-2.4 5.7-2.4-.1-2.4-5.7-2.4-9.9-2.5-12.6-2.4-13.1-2.4-11.9-2.4-9.1-2.4-5.6-2.4-1.9-2.4 1.2-2.4 3.4-2.4 4.3-2.5 4.3-2.4 3.4-2.4 2.4-2.4 1.5-2.4 .8-2.4 .8-2.4 .9-2.4 1.1-2.5 .9-2.4 .1-2.4-1.5-2.4-3.6-2.4-6.1-2.4-8.2-2.4-9.4-2.4-9.1-2.4-7.3-2.5-3.7-2.4 1.1-2.4 6.6-2.4 11.9-2.4 16.2-2.4 18.9-2.4 19.4-2.4 17.8-2.4 14.3-2.5 9.4-2.4 3.9-2.4-1.6z"/><path class="r" d="M35.3 -27.3l1.2 1.4 1.2 .2 1.2-1.3 1.2-2.6 1.2-4 1.3-5.4 1.2-6.6 1.2-7.7 1.2-8.5 1.2-9.3 1.2-9.6 1.2-9.8 1.2-9.6 1.2-9.3 1.2-8.5 1.2-7.7 1.2-6.6 1.2-5.3 1.2-4 1.2-2.6 1.2-1.3 1.2 .2 1.3 1.3 1.2 2.4 1.2 3.3 1.2 4 1.2 4.4 1.2 4.7 1.2 4.8 1.2 4.6 1.2 4.3 1.2 3.9 1.2 3.3 1.2 2.8 1.2 2.1 1.2 1.5 1.2 1 1.2 .5 1.2 .1 1.2-.2 1.3-.4 1.2-.5 1.2-.5 1.2-.6 1.2-.5 1.2-.4 1.2-.4 1.2-.4 1.2-.4 1.2-.4 1.2-.7 1.2-.8 1.2-1 1.2-1.4 1.2-1.6 1.2-1.8 1.2-2.1 1.3-2.2 1.2-2.2 1.2-2.1 1.2-1.9 1.2-1.5 1.2-.9 1.2-.3 1.2 .5 1.2 1.4 1.2 2.3 1.2 3.3 1.2 4.1 1.2 5 1.2 5.7 1.2 6.2 1.2 6.5 1.2 6.6 1.2 6.5 1.3 6.1 1.2 5.4 1.2 4.5 1.2 3.5 1.2 2.2 1.2 .8 1.2-.7 1.2-2.1 1.2-3.6 1.2-5 1.2-6.3 1.2-7.3 1.2-8.2 1.2-8.8 1.2-9.3 1.2-9.5 1.2-9.4 1.3-9.1 1.2-8.7 1.2-8.1 1.2-7.3 1.2-6.5 1.2-5.5 1.2-4.7 1.2-3.6"/><path class="c" d="M155.9 -174.5m0 0l.7 3.5m-1.9 .1l.7 3.6m-1.9 1.1l.7 3.5m-1.9 2l.7 3.6m-1.9 2.9l.7 3.6m-1.9 3.7l.7 3.6m-1.9 4.5l.7 3.5m-1.9 5.2l.7 3.5m-2 5.6l.8 3.5m-2 5.9l.7 3.5m-1.9 6l.7 3.5m-1.9 5.8l.7 3.5m-1.9 5.3l.7 3.5m-1.9 4.7l.7 3.5m-1.9 3.8l.7 3.4m-1.9 2.9l.7 3.3m-1.9 1.7l.7 3.1m-1.9 .5l.7 3m-1.9-.9l.7 2.8m-1.9-2.1l.7 2.5m-1.9-3.3l.7 2.2m-1.9-4.4l.7 1.9m-1.9-5.4l.7 1.5m-1.9-6l.7 1.1m-1.9-6.5l.7 .7m-2-6.8l.8 .4m-2-6.9l.8 .1m-2-6.7l.7-.2m-1.9-6.3l.7-.4m-1.9-5.8l.7-.6m-1.9-5.1l.7-.6m-1.9-4.4l.7-.6m-1.9-3.5l.7-.5m-1.9-2.8l.7-.3m-1.9-2l.7-.1m-1.9-1.3l.7 .2m-1.9-.7l.7 .5m-1.9-.2l.7 .8m-1.9 .1l.7 1.3m-1.9 .2l.7 1.6m-1.9 .3l.7 1.9m-1.9 .2l.7 2.2m-1.9 0l.7 2.4m-2-.2l.8 2.5m-2-.4l.7 2.6m-1.9-.8l.7 2.6m-1.9-1l.7 2.6m-1.9-1.2l.7 2.4m-1.9-1.4l.7 2.2m-1.9-1.4l.7 2m-1.9-1.3l.7 1.7m-1.9-1.3l.7 1.4m-1.9-1l.7 1.1m-1.9-.7l.7 .8m-1.9-.4l.7 .5m-1.9-.1l.7 .3m-1.9 .2l.7 .2m-1.9 .4l.7 0m-1.9 .5l.7 0m-1.9 .5l.7 0m-2 .4l.8 .1m-2 .1l.8 .2m-2-.3l.7 .4m-1.9-.9l.7 .6m-1.9-1.6l.7 .8m-1.9-2.3l.7 1m-1.9-3.1l.7 1.2m-1.9-4l.7 1.4m-1.9-4.7l.7 1.6m-1.9-5.5l.7 1.8m-1.9-6.1l.7 1.9m-1.9-6.5l.7 2m-1.9-6.8l.7 2.1m-1.9-6.8l.7 2.2m-1.9-6.6l.7 2.1m-1.9-6.1l.7 2.2m-1.9-5.5l.7 2.2m-1.9-4.6l.7 2.3m-2-3.6l.8 2.3m-2-2.5l.7 2.5m-1.9-1.2l.7 2.6m-1.9 0l.7 2.7m-1.9 1.3l.7 2.9m-1.9 2.4l.7 3.2m-1.9 3.4l.7 3.4m-1.9 4.3l.7 3.6m-1.9 4.9l.7 3.8m-1.9 5.5l.7 3.9m-1.9 5.7l.7 4.1m-1.9 5.7l.7 4.2m-1.9 5.4l.7 4.2m-1.9 5.1l.7 4.1m-1.9 4.4l.7 4m-1.9 3.7l.7 3.7m-1.9 2.9l.7 3.4m-2 2l.8 2.9m-2 1.1l.7 2.4m-1.9 .2l.7 1.9m-1.9-.6l.7 1.2m-1.9-1.4l.7 .6m-1.9-2l.7-.2"/><path class="s" d="M37.2 -25.3L36.5 -25.9M66.2 -136L65.5 -138.2M78.2 -98.3L77.5 -99.3M114.4 -120.7L113.7 -120.9M131.3 -51.9L130.6 -53.8M77.5 -99.3L78.7 -97.8M112.5 -121.4L113.7 -120.9"/></g>
<g transform="translate(333.7 259.5)"><path class="fgR" d="M36 -29.3l2.4 4.2 2.5-1.5 2.4-7.5 2.4-13 2.4-17.2 2.4-19.5 2.4-19.3 2.4-17 2.4-12.7 2.4-7.3 2.5-1.6 2.4 3.4 2.4 7 2.4 8.9 2.4 8.9 2.4 7.6 2.4 5.3 2.4 2.8 2.5 .7 2.4-.6 2.4-1 2.4-.8 2.4-.2 2.4 .3 2.4 .3 2.4-.4 2.4-1.8 2.5-3.3 2.4-4.7 2.4-5.3 2.4-4.6 2.4-2.6 2.4 .7 2.4 4.8 2.4 8.9 2.4 12.2 2.5 14.1 2.4 13.8 2.4 11.3 2.4 7 2.4 1.3 2.4-4.9 2.4-10.7 2.4-15.2 2.5-18 2.4-18.8 2.4-17.7 2.4-15.3 2.4-12 2.4-8.5-.7-3.7-2.4 8.3-2.4 12.1-2.4 15.3-2.4 17.8-2.5 18.9-2.4 18.1-2.4 15.4-2.4 11-2.4 5.4-2.4-.7-2.4-6.4-2.4-10.7-2.4-13.2-2.5-13.6-2.4-12.1-2.4-9-2.4-5.2-2.4-1.3-2.4 2-2.4 4-2.4 4.8-2.5 4.5-2.4 3.4-2.4 2-2.4 1-2.4 .2-2.4 .2-2.4 .6-2.4 .9-2.4 1-2.5 .4-2.4-1.1-2.4-3.2-2.4-5.7-2.4-7.9-2.4-9.2-2.4-9.1-2.4-7.2-2.4-3.6-2.5 1.4-2.4 6.9-2.4 12.4-2.4 16.6-2.4 19.2-2.4 19.5-2.4 17.6-2.4 13.7-2.5 8.4-2.4 2.7-2.4-3z"/><path class="r" d="M35.3 -29l1.2 2.2 1.2 .8 1.2-.6 1.2-2.1 1.3-3.5 1.2-4.9 1.2-6.3 1.2-7.4 1.2-8.4 1.2-9.2 1.2-9.6 1.2-9.9 1.2-9.8 1.2-9.4 1.2-8.7 1.2-7.9 1.2-6.8 1.2-5.6 1.2-4.2 1.2-2.7 1.2-1.4 1.3 0 1.2 1.3 1.2 2.3 1.2 3.3 1.2 3.9 1.2 4.5 1.2 4.6 1.2 4.7 1.2 4.5 1.2 4.2 1.2 3.7 1.2 3.1 1.2 2.6 1.2 1.9 1.2 1.3 1.2 .8 1.2 .3 1.3-.1 1.2-.3 1.2-.5 1.2-.5 1.2-.5 1.2-.4 1.2-.4 1.2-.2 1.2-.1 1.2-.1 1.2-.1 1.2-.1 1.2-.4 1.2-.6 1.2-.8 1.2-1.2 1.2-1.6 1.2-1.8 1.3-2.2 1.2-2.3 1.2-2.4 1.2-2.4 1.2-2.2 1.2-1.8 1.2-1.4 1.2-.6 1.2 .2 1.2 1.1 1.2 2.1 1.2 3.1 1.2 4 1.2 5 1.2 5.7 1.2 6.4 1.2 6.7 1.3 6.9 1.2 6.8 1.2 6.4 1.2 5.8 1.2 4.9 1.2 3.9 1.2 2.5 1.2 1.1 1.2-.4 1.2-1.9 1.2-3.5 1.2-4.8 1.2-6.2 1.2-7.2 1.2-8.2 1.2-8.8 1.2-9.3 1.2-9.5 1.3-9.4 1.2-9.1 1.2-8.7 1.2-8 1.2-7.3 1.2-6.5 1.2-5.6 1.2-4.6 1.2-3.7"/><path class="c" d="M155.9 -172.5m0 0l.7 3.7m-1.9 0l.7 3.8m-1.9 .8l.7 3.9m-1.9 1.7l.7 3.9m-1.9 2.6l.7 3.8m-1.9 3.5l.7 3.8m-1.9 4.2l.7 3.8m-1.9 4.9l.7 3.7m-1.9 5.4l.7 3.7m-2 5.7l.8 3.7m-2 5.8l.8 3.6m-2 5.7l.7 3.5m-1.9 5.3l.7 3.5m-1.9 4.7l.7 3.3m-1.9 3.9l.7 3.3m-1.9 2.9l.7 3.1m-1.9 1.7l.7 3m-1.9 .5l.7 2.7m-1.9-.8l.7 2.5m-1.9-2.1l.7 2.2m-1.9-3.3l.7 1.9m-1.9-4.4l.7 1.6m-1.9-5.5l.7 1.3m-1.9-6.2l.7 1m-1.9-6.8l.7 .7m-1.9-7.1l.7 .3m-1.9-7.1l.7 .1m-2-7l.8-.2m-2-6.5l.7-.4m-1.9-6l.7-.4m-1.9-5.3l.7-.5m-1.9-4.5l.7-.4m-1.9-3.6l.7-.4m-1.9-2.7l.7-.2m-1.9-1.9l.7 0m-1.9-1.1l.7 .3m-1.9-.5l.7 .6m-1.9 0l.7 1m-1.9 .4l.7 1.2m-1.9 .6l.7 1.5m-1.9 .7l.7 1.8m-1.9 .6l.7 2m-1.9 .4l.7 2.3m-1.9 0l.7 2.5m-2-.3l.8 2.5m-2-.7l.8 2.5m-2-.9l.7 2.4m-1.9-1.2l.7 2.3m-1.9-1.5l.7 2.2m-1.9-1.6l.7 1.9m-1.9-1.5l.7 1.6m-1.9-1.5l.7 1.4m-1.9-1.3l.7 1.1m-1.9-1l.7 .8m-1.9-.7l.7 .6m-1.9-.4l.7 .4m-1.9 0l.7 .2m-1.9 .2l.7 .1m-1.9 .4l.7 .1m-1.9 .4l.7 .1m-1.9 .4l.7 .1m-1.9 .2l.7 .2m-2-.1l.8 .3m-2-.6l.7 .5m-1.9-1.3l.7 .7m-1.9-2l.7 .9m-1.9-2.8l.7 1.1m-1.9-3.7l.7 1.3m-1.9-4.4l.7 1.5m-1.9-5.2l.7 1.7m-1.9-5.9l.7 1.8m-1.9-6.3l.7 2m-1.9-6.7l.7 2.1m-1.9-6.7l.7 2.1m-1.9-6.6l.7 2.3m-1.9-6.2l.7 2.4m-1.9-5.7l.7 2.5m-1.9-4.8l.7 2.5m-1.9-3.8l.7 2.7m-2-2.7l.8 2.8m-2-1.4l.7 2.9m-1.9-.2l.7 3.1m-1.9 1.1l.7 3.3m-1.9 2.3l.7 3.4m-1.9 3.4l.7 3.6m-1.9 4.3l.7 3.7m-1.9 5l.7 4m-1.9 5.4l.7 4.1m-1.9 5.7l.7 4.1m-1.9 5.8l.7 4.1m-1.9 5.5l.7 4.1m-1.9 5.1l.7 3.9m-1.9 4.5l.7 3.7m-1.9 3.7l.7 3.4m-1.9 2.9l.7 3m-1.9 1.9l.7 2.6m-2 .9l.8 2.1m-2 0l.8 1.5m-2-.9l.7 .9m-1.9-1.7l.7 .2m-1.9-2.4l.7-.3"/><path class="s" d="M38.4 -25.1L37.7 -26M67.4 -131.3L66.7 -133.6M78.2 -98.9L77.5 -99.8M114.4 -121.9L113.7 -122.2M131.3 -51.8L130.6 -53.4M36.5 -26.8L37.7 -26M65.5 -137.5L66.7 -133.6"/></g>
<g transform="translate(334.4 261)"><path class="fgR" d="M36 -31.5l2.5 5.4 2.4-.3 2.4-6.5 2.4-12.2 2.4-16.8 2.4-19.3 2.4-19.4 2.4-17.2 2.4-12.9 2.5-7.6 2.4-1.9 2.4 3.1 2.4 6.7 2.4 8.6 2.4 8.6 2.4 7.2 2.4 4.9 2.4 2.4 2.5 .4 2.4-.7 2.4-1.1 2.4-.6 2.4 .2 2.4 .8 2.4 .7 2.4 0 2.5-1.5 2.4-3.3 2.4-4.9 2.4-5.6 2.4-5.2 2.4-3.1 2.4 .2 2.4 4.4 2.4 8.7 2.5 12.3 2.4 14.4 2.4 14.3 2.4 11.9 2.4 7.6 2.4 1.8 2.4-4.4 2.4-10.3 2.4-14.9 2.5-17.7 2.4-18.6 2.4-17.5 2.4-15.3 2.4-12 2.4-8.7-.7-3.9-2.4 8.5-2.4 12-2.4 15.3-2.4 17.7-2.4 18.8-2.5 18-2.4 15.2-2.4 10.7-2.4 4.9-2.4-1.3-2.4-7-2.4-11.3-2.4-13.8-2.5-14.1-2.4-12.2-2.4-8.9-2.4-4.8-2.4-.7-2.4 2.6-2.4 4.6-2.4 5.3-2.4 4.7-2.5 3.3-2.4 1.8-2.4 .4-2.4-.3-2.4-.3-2.4 .2-2.4 .8-2.4 1-2.4 .6-2.5-.7-2.4-2.8-2.4-5.3-2.4-7.6-2.4-8.9-2.4-8.9-2.4-7-2.4-3.4-2.5 1.6-2.4 7.3-2.4 12.7-2.4 17-2.4 19.3-2.4 19.5-2.4 17.2-2.4 13-2.4 7.5-2.5 1.5-2.4-4.2z"/><path class="r" d="M35.3 -30.8l1.2 2.7 1.2 1.5 1.3 0 1.2-1.5 1.2-3 1.2-4.5 1.2-5.9 1.2-7.1 1.2-8.2 1.2-9 1.2-9.6 1.2-9.9 1.2-9.8 1.2-9.5 1.2-9 1.2-8 1.2-7 1.2-5.7 1.2-4.4 1.2-2.9 1.3-1.5 1.2-.1 1.2 1.1 1.2 2.3 1.2 3.2 1.2 3.8 1.2 4.3 1.2 4.6 1.2 4.6 1.2 4.3 1.2 4.1 1.2 3.5 1.2 2.9 1.2 2.4 1.2 1.7 1.2 1.1 1.2 .6 1.3 .1 1.2-.2 1.2-.4 1.2-.5 1.2-.5 1.2-.5 1.2-.3 1.2-.2 1.2 0 1.2 .1 1.2 .2 1.2 .2 1.2 .1 1.2-.1 1.2-.3 1.2-.7 1.2-1.1 1.3-1.5 1.2-1.8 1.2-2.2 1.2-2.5 1.2-2.7 1.2-2.6 1.2-2.5 1.2-2.1 1.2-1.6 1.2-1 1.2-.1 1.2 .8 1.2 1.9 1.2 2.9 1.2 4 1.2 4.9 1.2 5.8 1.2 6.4 1.3 6.9 1.2 7.2 1.2 7 1.2 6.8 1.2 6.1 1.2 5.2 1.2 4.2 1.2 2.8 1.2 1.4 1.2-.1 1.2-1.7 1.2-3.2 1.2-4.7 1.2-6 1.2-7.2 1.2-8 1.2-8.8 1.3-9.2 1.2-9.4 1.2-9.4 1.2-9.1 1.2-8.6 1.2-8 1.2-7.3 1.2-6.4 1.2-5.6 1.2-4.7 1.2-3.8"/><path class="c" d="M155.9 -170.3m0 0l.7 3.9m-1.9-.1l.7 4m-1.9 .7l.7 4.1m-1.9 1.5l.7 4.1m-1.9 2.3l.7 4.1m-1.9 3.2l.7 4.1m-1.9 3.9l.7 4.1m-1.9 4.5l.7 4m-1.9 5.1l.7 3.9m-1.9 5.5l.7 3.8m-1.9 5.6l.7 3.7m-2 5.5l.8 3.6m-2 5.2l.7 3.4m-1.9 4.6l.7 3.3m-1.9 3.9l.7 3.1m-1.9 2.9l.7 2.9m-1.9 1.8l.7 2.7m-1.9 .5l.7 2.5m-1.9-.8l.7 2.2m-1.9-2.1l.7 2m-1.9-3.4l.7 1.7m-1.9-4.5l.7 1.3m-1.9-5.5l.7 1.1m-1.9-6.3l.7 .8m-1.9-6.9l.7 .5m-1.9-7.3l.7 .3m-1.9-7.3l.7 0m-1.9-7.2l.7-.1m-2-6.8l.8-.3m-2-6.1l.8-.4m-2-5.4l.7-.4m-1.9-4.5l.7-.4m-1.9-3.6l.7-.2m-1.9-2.7l.7-.1m-1.9-1.8l.7 .2m-1.9-1l.7 .4m-1.9-.3l.7 .7m-1.9 .3l.7 .9m-1.9 .7l.7 1.2m-1.9 .9l.7 1.6m-1.9 .9l.7 1.8m-1.9 .8l.7 2m-1.9 .7l.7 2.1m-1.9 .4l.7 2.2m-1.9 0l.7 2.3m-1.9-.5l.7 2.4m-2-.9l.8 2.3m-2-1.2l.7 2.2m-1.9-1.5l.7 2m-1.9-1.7l.7 1.9m-1.9-1.8l.7 1.6m-1.9-1.7l.7 1.4m-1.9-1.6l.7 1.2m-1.9-1.4l.7 .9m-1.9-1l.7 .7m-1.9-.7l.7 .5m-1.9-.3l.7 .3m-1.9 0l.7 .2m-1.9 .3l.7 .1m-1.9 .4l.7 .1m-1.9 .4l.7 .2m-1.9 .2l.7 .2m-1.9 0l.7 .3m-2-.4l.8 .4m-2-1l.7 .6m-1.9-1.7l.7 .8m-1.9-2.5l.7 1m-1.9-3.4l.7 1.2m-1.9-4.1l.7 1.4m-1.9-4.9l.7 1.5m-1.9-5.6l.7 1.8m-1.9-6.1l.7 1.9m-1.9-6.5l.7 2.1m-1.9-6.7l.7 2.3m-1.9-6.6l.7 2.4m-1.9-6.2l.7 2.5m-1.9-5.7l.7 2.7m-1.9-5l.7 2.9m-1.9-4l.7 3m-1.9-2.9l.7 3.1m-2-1.6l.8 3.3m-2-.4l.8 3.4m-2 1l.7 3.6m-1.9 2.1l.7 3.7m-1.9 3.3l.7 3.8m-1.9 4.2l.7 4m-1.9 5l.7 4m-1.9 5.5l.7 4.1m-1.9 5.7l.7 4.1m-1.9 5.8l.7 4m-1.9 5.6l.7 3.9m-1.9 5.1l.7 3.7m-1.9 4.5l.7 3.5m-1.9 3.6l.7 3.2m-1.9 2.7l.7 2.7m-1.9 1.8l.7 2.2m-1.9 .8l.7 1.7m-1.9-.2l.7 1.2m-2-1.2l.8 .5m-2-2l.7 0m-1.9-2.7l.7-.7"/><path class="s" d="M38.5 -26.1L37.7 -26.6M67.4 -130.4L66.7 -132.8M78.2 -99.6L77.5 -100.4M114.4 -123L113.7 -123.4M132.5 -48.8L131.8 -50.5M130.6 -53.3L131.8 -50.5"/></g>
<g transform="translate(335.1 262.5)"><path class="fgR" d="M36.1 -34l2.4 6.7 2.4 .8 2.4-5.5 2.4-11.4 2.4-16.2 2.4-19 2.4-19.3 2.4-17.2 2.5-13.2 2.4-7.9 2.4-2.3 2.4 2.7 2.4 6.4 2.4 8.2 2.4 8.2 2.4 6.7 2.4 4.5 2.5 2.1 2.4 .2 2.4-.9 2.4-.9 2.4-.4 2.4 .5 2.4 1.1 2.4 1.2 2.4 .3 2.5-1.3 2.4-3.2 2.4-5 2.4-6 2.4-5.6 2.4-3.6 2.4-.3 2.4 4.1 2.5 8.5 2.4 12.3 2.4 14.6 2.4 14.6 2.4 12.4 2.4 8.2 2.4 2.4 2.4-3.9 2.4-9.8 2.5-14.4 2.4-17.4 2.4-18.2 2.4-17.4 2.4-15.1 2.4-12.2 2.4-8.9-.7-4.1-2.4 8.7-2.4 12-2.4 15.3-2.4 17.5-2.4 18.6-2.5 17.7-2.4 14.9-2.4 10.3-2.4 4.4-2.4-1.8-2.4-7.6-2.4-11.9-2.4-14.3-2.4-14.4-2.5-12.3-2.4-8.7-2.4-4.4-2.4-.2-2.4 3.1-2.4 5.2-2.4 5.6-2.4 4.9-2.4 3.3-2.5 1.5-2.4 0-2.4-.7-2.4-.8-2.4-.2-2.4 .6-2.4 1.1-2.4 .7-2.5-.4-2.4-2.4-2.4-4.9-2.4-7.2-2.4-8.6-2.4-8.6-2.4-6.7-2.4-3.1-2.4 1.9-2.5 7.6-2.4 12.9-2.4 17.2-2.4 19.4-2.4 19.3-2.4 16.8-2.4 12.2-2.4 6.5-2.4 .3-2.5-5.4z"/><path class="r" d="M35.3 -33l1.2 3.4 1.3 2 1.2 .7 1.2-1 1.2-2.5 1.2-4 1.2-5.4 1.2-6.8 1.2-8 1.2-8.8 1.2-9.5 1.2-9.8 1.2-9.8 1.2-9.6 1.2-9 1.2-8.2 1.2-7.1 1.2-5.8 1.3-4.6 1.2-3 1.2-1.7 1.2-.2 1.2 1 1.2 2.1 1.2 3 1.2 3.7 1.2 4.2 1.2 4.4 1.2 4.4 1.2 4.2 1.2 3.8 1.2 3.4 1.2 2.7 1.2 2.2 1.2 1.5 1.2 .9 1.3 .4 1.2 0 1.2-.3 1.2-.4 1.2-.6 1.2-.5 1.2-.4 1.2-.2 1.2 0 1.2 .2 1.2 .3 1.2 .5 1.2 .4 1.2 .3 1.2 .2 1.2-.2 1.2-.5 1.3-1 1.2-1.4 1.2-1.9 1.2-2.3 1.2-2.6 1.2-2.8 1.2-2.8 1.2-2.7 1.2-2.5 1.2-1.9 1.2-1.2 1.2-.4 1.2 .6 1.2 1.6 1.2 2.8 1.2 3.8 1.2 4.9 1.3 5.8 1.2 6.5 1.2 7.1 1.2 7.3 1.2 7.3 1.2 7 1.2 6.4 1.2 5.5 1.2 4.4 1.2 3.2 1.2 1.7 1.2 .1 1.2-1.4 1.2-3 1.2-4.5 1.2-5.8 1.2-7 1.2-7.9 1.3-8.6 1.2-9.1 1.2-9.3 1.2-9.3 1.2-9 1.2-8.5 1.2-8 1.2-7.3 1.2-6.4 1.2-5.6 1.2-4.8 1.2-3.9"/><path class="c" d="M155.9 -167.9m0 0l.7 4.1m-1.9-.2l.7 4.3m-1.9 .5l.7 4.3m-1.9 1.3l.7 4.4m-1.9 2l.7 4.5m-1.9 2.8l.7 4.4m-1.9 3.6l.7 4.3m-1.9 4.2l.7 4.3m-1.9 4.7l.7 4.2m-1.9 5.1l.7 4m-1.9 5.3l.7 3.8m-1.9 5.3l.7 3.6m-2 5l.8 3.5m-2 4.4l.8 3.3m-2 3.7l.7 3m-1.9 2.8l.7 2.8m-1.9 1.7l.7 2.5m-1.9 .5l.7 2.2m-1.9-.8l.7 2m-1.9-2.1l.7 1.7m-1.9-3.4l.7 1.4m-1.9-4.6l.7 1.2m-1.9-5.6l.7 .8m-1.9-6.3l.7 .5m-1.9-6.9l.7 .3m-1.9-7.3l.7 .1m-1.9-7.4l.7 0m-1.9-7.3l.7-.1m-1.9-7l.7-.2m-1.9-6.3l.7-.2m-2-5.6l.8-.2m-2-4.7l.7-.1m-1.9-3.7l.7 0m-1.9-2.8l.7 .2m-1.9-1.8l.7 .3m-1.9-.9l.7 .5m-1.9-.1l.7 .8m-1.9 .4l.7 1m-1.9 .9l.7 1.3m-1.9 1.2l.7 1.5m-1.9 1.2l.7 1.7m-1.9 1.1l.7 1.9m-1.9 .9l.7 2.1m-1.9 .5l.7 2.2m-1.9 .1l.7 2.2m-1.9-.3l.7 2.2m-1.9-.8l.7 2.1m-2-1.1l.8 2m-2-1.5l.7 1.9m-1.9-1.7l.7 1.7m-1.9-1.9l.7 1.6m-1.9-1.9l.7 1.4m-1.9-1.8l.7 1.1m-1.9-1.6l.7 1m-1.9-1.3l.7 .8m-1.9-1l.7 .6m-1.9-.6l.7 .5m-1.9-.3l.7 .4m-1.9 0l.7 .3m-1.9 .2l.7 .2m-1.9 .4l.7 .1m-1.9 .3l.7 .3m-1.9 0l.7 .3m-1.9-.3l.7 .4m-2-.8l.8 .5m-2-1.4l.8 .7m-2-2.2l.7 .8m-1.9-3l.7 1.1m-1.9-3.8l.7 1.2m-1.9-4.6l.7 1.5m-1.9-5.3l.7 1.7m-1.9-5.9l.7 1.9m-1.9-6.3l.7 2.1m-1.9-6.5l.7 2.3m-1.9-6.5l.7 2.5m-1.9-6.2l.7 2.7m-1.9-5.7l.7 2.8m-1.9-4.9l.7 3m-1.9-4l.7 3.2m-1.9-3l.7 3.5m-1.9-1.8l.7 3.6m-1.9-.6l.7 3.8m-2 .8l.8 3.9m-2 1.9l.7 4.1m-1.9 3l.7 4.2m-1.9 4l.7 4.2m-1.9 4.8l.7 4.2m-1.9 5.4l.7 4.2m-1.9 5.6l.7 4.1m-1.9 5.7l.7 4m-1.9 5.5l.7 3.8m-1.9 5l.7 3.6m-1.9 4.4l.7 3.2m-1.9 3.6l.7 2.8m-1.9 2.6l.7 2.4m-1.9 1.6l.7 2m-1.9 .5l.7 1.4m-1.9-.4l.7 .8m-1.9-1.5l.7 .3m-2-2.3l.8-.4m-2-3l.8-1"/><path class="s" d="M39.7 -26.1L39 -26.9M67.4 -129.4L66.7 -131.9M78.3 -100.4L77.5 -101.1M115.6 -123.6L114.9 -123.9M132.5 -48.9L131.8 -50.3M37.8 -27.6L39 -26.9M113.7 -124.5L114.9 -123.9"/></g>
<g transform="translate(335.8 264)"><path class="fgR" d="M36.1 -36.7l2.4 7.7 2.4 2 2.4-4.4 2.4-10.6 2.4-15.5 2.4-18.4 2.4-19.1 2.5-17.3 2.4-13.3 2.4-8.2 2.4-2.6 2.4 2.2 2.4 5.9 2.4 7.6 2.4 7.7 2.4 6.3 2.5 4.2 2.4 1.8 2.4 0 2.4-.9 2.4-.9 2.4-.2 2.4 .8 2.4 1.5 2.4 1.5 2.5 .6 2.4-1.1 2.4-3.2 2.4-5.2 2.4-6.2 2.4-5.9 2.4-4 2.4-.7 2.4 3.7 2.5 8.4 2.4 12.2 2.4 14.7 2.4 14.8 2.4 12.9 2.4 8.6 2.4 3 2.4-3.3 2.5-9.2 2.4-13.9 2.4-16.8 2.4-17.9 2.4-17.1 2.4-15 2.4-12.2 2.4-9.3-.7-4.3-2.4 8.9-2.4 12.2-2.4 15.1-2.4 17.4-2.4 18.2-2.4 17.4-2.5 14.4-2.4 9.8-2.4 3.9-2.4-2.4-2.4-8.2-2.4-12.4-2.4-14.6-2.4-14.6-2.4-12.3-2.5-8.5-2.4-4.1-2.4 .3-2.4 3.6-2.4 5.6-2.4 6-2.4 5-2.4 3.2-2.5 1.3-2.4-.3-2.4-1.2-2.4-1.1-2.4-.5-2.4 .4-2.4 .9-2.4 .9-2.4-.2-2.5-2.1-2.4-4.5-2.4-6.7-2.4-8.2-2.4-8.2-2.4-6.4-2.4-2.7-2.4 2.3-2.4 7.9-2.5 13.2-2.4 17.2-2.4 19.3-2.4 19-2.4 16.2-2.4 11.4-2.4 5.5-2.4-.8-2.4-6.7z"/><path class="r" d="M35.4 -35.5l1.2 4 1.2 2.7 1.2 1.2 1.2-.4 1.2-1.9 1.2-3.6 1.2-5 1.2-6.4 1.2-7.6 1.2-8.6 1.2-9.3 1.2-9.7 1.2-9.7 1.2-9.6 1.2-9 1.2-8.2 1.2-7.2 1.3-6 1.2-4.7 1.2-3.2 1.2-1.8 1.2-.5 1.2 .8 1.2 1.9 1.2 2.9 1.2 3.5 1.2 4 1.2 4.2 1.2 4.2 1.2 4 1.2 3.6 1.2 3.1 1.2 2.6 1.2 1.9 1.3 1.4 1.2 .7 1.2 .3 1.2-.1 1.2-.3 1.2-.6 1.2-.5 1.2-.4 1.2-.3 1.2-.1 1.2 .1 1.2 .4 1.2 .5 1.2 .6 1.2 .7 1.2 .5 1.2 .3 1.2 0 1.3-.4 1.2-.9 1.2-1.3 1.2-1.9 1.2-2.3 1.2-2.7 1.2-3 1.2-3 1.2-2.9 1.2-2.7 1.2-2.2 1.2-1.4 1.2-.7 1.2 .4 1.2 1.5 1.2 2.6 1.2 3.7 1.3 4.8 1.2 5.8 1.2 6.5 1.2 7.2 1.2 7.4 1.2 7.4 1.2 7.2 1.2 6.6 1.2 5.8 1.2 4.8 1.2 3.4 1.2 2 1.2 .4 1.2-1.2 1.2-2.7 1.2-4.2 1.2-5.6 1.3-6.7 1.2-7.7 1.2-8.5 1.2-8.9 1.2-9.1 1.2-9.1 1.2-8.9 1.2-8.5 1.2-7.9 1.2-7.2 1.2-6.5 1.2-5.7 1.2-4.8 1.2-4.1"/><path class="c" d="M155.9 -165.3m0 0l.7 4.3m-1.9-.2l.7 4.4m-1.9 .4l.7 4.7m-1.9 1l.7 4.7m-1.9 1.8l.7 4.7m-1.9 2.5l.7 4.7m-1.9 3.2l.7 4.6m-1.9 3.9l.7 4.5m-1.9 4.4l.7 4.3m-1.9 4.8l.7 4.2m-1.9 4.9l.7 4m-1.9 4.9l.7 3.8m-1.9 4.7l.7 3.4m-1.9 4.3l.7 3.2m-2 3.5l.8 2.9m-2 2.7l.7 2.6m-1.9 1.6l.7 2.3m-1.9 .4l.7 2m-1.9-.8l.7 1.7m-1.9-2.1l.7 1.3m-1.9-3.3l.7 1.1m-1.9-4.5l.7 .8m-1.9-5.6l.7 .7m-1.9-6.5l.7 .4m-1.9-7l.7 .2m-1.9-7.4l.7 .1m-1.9-7.5l.7 0m-1.9-7.4l.7-.1m-1.9-7.1l.7-.1m-1.9-6.4l.7-.1m-1.9-5.7l.7 0m-2-4.8l.8 0m-2-3.7l.7 .1m-1.9-2.7l.7 .3m-1.9-1.8l.7 .5m-1.9-.9l.7 .7m-1.9 0l.7 .9m-1.9 .5l.7 1.1m-1.9 1.1l.7 1.3m-1.9 1.4l.7 1.4m-1.9 1.5l.7 1.6m-1.9 1.4l.7 1.8m-1.9 1.2l.7 1.8m-1.9 .9l.7 1.9m-1.9 .4l.7 2m-1.9-.1l.7 2m-1.9-.7l.7 2m-1.9-1.1l.7 1.9m-2-1.5l.8 1.8m-2-1.8l.8 1.7m-2-2l.7 1.5m-1.9-2l.7 1.3m-1.9-2l.7 1.2m-1.9-1.8l.7 1m-1.9-1.5l.7 .8m-1.9-1.2l.7 .7m-1.9-.8l.7 .5m-1.9-.4l.7 .4m-1.9-.1l.7 .3m-1.9 .1l.7 .3m-1.9 .2l.7 .3m-1.9 .3l.7 .2m-1.9 .1l.7 .3m-1.9-.2l.7 .4m-1.9-.7l.7 .5m-1.9-1.2l.7 .5m-2-1.9l.8 .8m-2-2.7l.7 .9m-1.9-3.5l.7 1.1m-1.9-4.2l.7 1.3m-1.9-4.9l.7 1.5m-1.9-5.5l.7 1.8m-1.9-6l.7 2m-1.9-6.2l.7 2.3m-1.9-6.3l.7 2.6m-1.9-6.1l.7 2.8m-1.9-5.7l.7 3.1m-1.9-5l.7 3.4m-1.9-4.2l.7 3.6m-1.9-3.1l.7 3.7m-1.9-1.9l.7 3.9m-1.9-.7l.7 4.1m-1.9 .6l.7 4.2m-2 1.8l.8 4.3m-2 2.9l.8 4.3m-2 3.9l.7 4.4m-1.9 4.6l.7 4.4m-1.9 5.2l.7 4.2m-1.9 5.5l.7 4.2m-1.9 5.5l.7 3.9m-1.9 5.4l.7 3.6m-1.9 5l.7 3.3m-1.9 4.3l.7 2.9m-1.9 3.5l.7 2.5m-1.9 2.5l.7 2.1m-1.9 1.5l.7 1.5m-1.9 .4l.7 1m-1.9-.6l.7 .4m-1.9-1.6l.7-.2m-1.9-2.5l.7-.7m-1.9-3.3l.7-1.2"/><path class="s" d="M39.7 -27.2L39 -27.6M68.6 -124.6L67.9 -126.9M78.3 -101.4L77.6 -101.9M115.6 -124.6L114.9 -125.1M133.7 -47.1L133 -48.4M66.7 -130.9L67.9 -126.9M131.8 -50.4L133 -48.4"/></g>
<g transform="translate(336.5 265.5)"><path class="fgR" d="M36.1 -39.7l2.4 8.8 2.4 3 2.4-3.3 2.4-9.6 2.4-14.7 2.4-17.8 2.4-18.7 2.5-17.1 2.4-13.4 2.4-8.5 2.4-3.1 2.4 1.7 2.4 5.3 2.4 7 2.4 7.1 2.5 5.8 2.4 3.8 2.4 1.5 2.4 0 2.4-.9 2.4-.8 2.4 .1 2.4 1.1 2.4 1.8 2.5 1.7 2.4 .8 2.4-1 2.4-3.2 2.4-5.2 2.4-6.4 2.4-6.2 2.4-4.4 2.4-1 2.5 3.5 2.4 8.1 2.4 12.1 2.4 14.6 2.4 15 2.4 13.1 2.4 9.1 2.4 3.6 2.4-2.7 2.5-8.4 2.4-13.2 2.4-16.2 2.4-17.4 2.4-16.8 2.4-14.9 2.4-12.4 2.4-9.6-.7-4.5-2.4 9.3-2.4 12.2-2.4 15-2.4 17.1-2.4 17.9-2.4 16.8-2.4 13.9-2.5 9.2-2.4 3.3-2.4-3-2.4-8.6-2.4-12.9-2.4-14.8-2.4-14.7-2.4-12.2-2.5-8.4-2.4-3.7-2.4 .7-2.4 4-2.4 5.9-2.4 6.2-2.4 5.2-2.4 3.2-2.4 1.1-2.5-.6-2.4-1.5-2.4-1.5-2.4-.8-2.4 .2-2.4 .9-2.4 .9-2.4 0-2.4-1.8-2.5-4.2-2.4-6.3-2.4-7.7-2.4-7.6-2.4-5.9-2.4-2.2-2.4 2.6-2.4 8.2-2.4 13.3-2.5 17.3-2.4 19.1-2.4 18.4-2.4 15.5-2.4 10.6-2.4 4.4-2.4-2-2.4-7.7z"/><path class="r" d="M35.4 -38.2l1.2 4.5 1.2 3.2 1.2 1.8 1.2 .2 1.2-1.4 1.2-3 1.2-4.6 1.2-6 1.2-7.2 1.2-8.3 1.2-9 1.2-9.4 1.2-9.7 1.2-9.4 1.2-9 1.3-8.3 1.2-7.2 1.2-6.1 1.2-4.8 1.2-3.4 1.2-2 1.2-.6 1.2 .6 1.2 1.6 1.2 2.6 1.2 3.3 1.2 3.7 1.2 3.9 1.2 4 1.2 3.7 1.2 3.4 1.2 2.9 1.2 2.4 1.3 1.8 1.2 1.1 1.2 .7 1.2 .2 1.2-.2 1.2-.4 1.2-.5 1.2-.5 1.2-.4 1.2-.2 1.2 0 1.2 .3 1.2 .5 1.2 .7 1.2 .8 1.2 .8 1.2 .7 1.3 .5 1.2 .1 1.2-.3 1.2-.8 1.2-1.3 1.2-1.9 1.2-2.4 1.2-2.8 1.2-3 1.2-3.2 1.2-3.1 1.2-2.8 1.2-2.4 1.2-1.6 1.2-.9 1.2 .2 1.2 1.3 1.2 2.4 1.3 3.6 1.2 4.8 1.2 5.7 1.2 6.5 1.2 7.2 1.2 7.5 1.2 7.5 1.2 7.3 1.2 6.8 1.2 6.1 1.2 4.9 1.2 3.7 1.2 2.2 1.2 .8 1.2-.9 1.2-2.4 1.2-3.9 1.3-5.3 1.2-6.4 1.2-7.5 1.2-8.1 1.2-8.7 1.2-8.9 1.2-9 1.2-8.7 1.2-8.4 1.2-7.8 1.2-7.2 1.2-6.5 1.2-5.7 1.2-5.1 1.2-4.2"/><path class="c" d="M155.9 -162.5m0 0l.7 4.5m-1.9-.3l.7 4.8m-1.9 .3l.7 4.8m-1.9 .9l.7 5m-1.9 1.5l.7 5m-1.9 2.2l.7 5m-1.9 2.8l.7 4.9m-1.9 3.5l.7 4.8m-1.9 3.9l.7 4.6m-1.9 4.4l.7 4.3m-1.9 4.6l.7 4.1m-1.9 4.6l.7 3.7m-1.9 4.4l.7 3.5m-1.9 4l.7 3.1m-1.9 3.3l.7 2.8m-2 2.5l.8 2.4m-2 1.5l.7 2m-1.9 .4l.7 1.7m-1.9-.8l.7 1.4m-1.9-2.2l.7 1.1m-1.9-3.3l.7 .8m-1.9-4.5l.7 .6m-1.9-5.5l.7 .3m-1.9-6.4l.7 .3m-1.9-7.1l.7 .1m-1.9-7.4l.7 0m-1.9-7.5l.7-.1m-1.9-7.4l.7-.1m-1.9-7.1l.7 0m-1.9-6.5l.7 0m-1.9-5.7l.7 .1m-1.9-4.9l.7 .3m-2-3.9l.8 .4m-2-2.8l.8 .5m-2-1.8l.7 .6m-1.9-.8l.7 .8m-1.9 .1l.7 .9m-1.9 .7l.7 1.2m-1.9 1.2l.7 1.3m-1.9 1.5l.7 1.5m-1.9 1.6l.7 1.6m-1.9 1.6l.7 1.7m-1.9 1.3l.7 1.8m-1.9 1l.7 1.8m-1.9 .6l.7 1.8m-1.9 .1l.7 1.8m-1.9-.5l.7 1.8m-1.9-1l.7 1.8m-1.9-1.5l.7 1.7m-1.9-1.8l.7 1.6m-2-2.1l.8 1.5m-2-2.2l.7 1.4m-1.9-2.2l.7 1.3m-1.9-2.1l.7 1.1m-1.9-1.8l.7 1m-1.9-1.5l.7 .8m-1.9-1.1l.7 .7m-1.9-.7l.7 .5m-1.9-.3l.7 .4m-1.9 0l.7 .3m-1.9 .2l.7 .3m-1.9 .2l.7 .3m-1.9 .1l.7 .3m-1.9-.1l.7 .3m-1.9-.5l.7 .3m-1.9-1l.7 .5m-1.9-1.6l.7 .6m-2-2.4l.8 .8m-2-3.2l.8 1m-2-3.9l.7 1.2m-1.9-4.6l.7 1.5m-1.9-5.2l.7 1.7m-1.9-5.7l.7 2.1m-1.9-6l.7 2.4m-1.9-6.1l.7 2.7m-1.9-6l.7 3m-1.9-5.6l.7 3.3m-1.9-4.9l.7 3.5m-1.9-4.1l.7 3.8m-1.9-3.2l.7 4.1m-1.9-2.1l.7 4.3m-1.9-.9l.7 4.5m-1.9 .3l.7 4.6m-1.9 1.5l.7 4.6m-1.9 2.6l.7 4.7m-2 3.6l.8 4.6m-2 4.4l.7 4.5m-1.9 4.9l.7 4.4m-1.9 5.3l.7 4.1m-1.9 5.3l.7 3.9m-1.9 5.1l.7 3.5m-1.9 4.8l.7 3.1m-1.9 4.1l.7 2.7m-1.9 3.3l.7 2.2m-1.9 2.4l.7 1.7m-1.9 1.3l.7 1.2m-1.9 .2l.7 .6m-1.9-.8l.7 .1m-1.9-1.9l.7-.4m-1.9-2.8l.7-1m-1.9-3.5l.7-1.5"/><path class="s" d="M39.7 -28.6L39 -28.7M68.6 -123.7L67.9 -126.1M78.3 -102.4L77.6 -102.9M115.6 -125.5L114.9 -126.1M133.7 -47.5L133 -48.6"/></g>
<g transform="translate(337.3 267)"><path class="fgR" d="M36 -43l2.4 9.8 2.4 4.1 2.4-2.3 2.4-8.5 2.4-13.7 2.4-17.1 2.5-18.2 2.4-16.8 2.4-13.4 2.4-8.7 2.4-3.6 2.4 1.1 2.4 4.5 2.4 6.3 2.4 6.4 2.5 5.3 2.4 3.3 2.4 1.4 2.4-.1 2.4-.8 2.4-.5 2.4 .3 2.4 1.3 2.5 2 2.4 2 2.4 .9 2.4-.9 2.4-3.2 2.4-5.3 2.4-6.5 2.4-6.4 2.4-4.6 2.5-1.2 2.4 3.1 2.4 7.8 2.4 11.9 2.4 14.5 2.4 15.1 2.4 13.3 2.4 9.4 2.4 4.1 2.5-1.9 2.4-7.6 2.4-12.4 2.4-15.4 2.4-16.8 2.4-16.4 2.4-14.8 2.4-12.5 2.4-10.1-.7-4.7-2.4 9.6-2.4 12.4-2.4 14.9-2.4 16.8-2.4 17.4-2.4 16.2-2.4 13.2-2.5 8.4-2.4 2.7-2.4-3.6-2.4-9.1-2.4-13.1-2.4-15-2.4-14.6-2.4-12.1-2.4-8.1-2.5-3.5-2.4 1-2.4 4.4-2.4 6.2-2.4 6.4-2.4 5.2-2.4 3.2-2.4 1-2.4-.8-2.5-1.7-2.4-1.8-2.4-1.1-2.4-.1-2.4 .8-2.4 .9-2.4 0-2.4-1.5-2.4-3.8-2.5-5.8-2.4-7.1-2.4-7-2.4-5.3-2.4-1.7-2.4 3.1-2.4 8.5-2.4 13.4-2.5 17.1-2.4 18.7-2.4 17.8-2.4 14.7-2.4 9.6-2.4 3.3-2.4-3-2.4-8.8z"/><path class="r" d="M35.3 -41.2l1.2 5 1.2 3.8 1.2 2.3 1.2 .7 1.2-.8 1.2-2.5 1.2-4.1 1.2-5.5 1.2-6.8 1.2-7.9 1.2-8.6 1.2-9.2 1.2-9.4 1.2-9.3 1.3-8.9 1.2-8.2 1.2-7.3 1.2-6.1 1.2-4.9 1.2-3.6 1.2-2.2 1.2-.9 1.2 .3 1.2 1.4 1.2 2.3 1.2 3 1.2 3.4 1.2 3.6 1.2 3.6 1.2 3.5 1.2 3.1 1.3 2.7 1.2 2.2 1.2 1.6 1.2 1 1.2 .5 1.2 .2 1.2-.2 1.2-.4 1.2-.5 1.2-.5 1.2-.3 1.2-.1 1.2 .2 1.2 .4 1.2 .7 1.2 .8 1.2 1 1.2 .9 1.3 .8 1.2 .6 1.2 .2 1.2-.2 1.2-.8 1.2-1.3 1.2-1.9 1.2-2.4 1.2-2.8 1.2-3.1 1.2-3.3 1.2-3.2 1.2-3 1.2-2.5 1.2-1.9 1.2-1 1.2 0 1.3 1.2 1.2 2.3 1.2 3.5 1.2 4.6 1.2 5.6 1.2 6.5 1.2 7.1 1.2 7.5 1.2 7.6 1.2 7.4 1.2 7 1.2 6.1 1.2 5.2 1.2 3.9 1.2 2.5 1.2 1.1 1.2-.6 1.2-2.1 1.3-3.5 1.2-4.9 1.2-6.1 1.2-7.1 1.2-7.9 1.2-8.3 1.2-8.7 1.2-8.7 1.2-8.5 1.2-8.3 1.2-7.7 1.2-7.2 1.2-6.5 1.2-5.9 1.2-5.1 1.2-4.5"/><path class="c" d="M155.8 -159.5m0 0l.7 4.7m-1.9-.2l.7 4.9m-1.9 .2l.7 5.2m-1.9 .7l.7 5.3m-1.9 1.2l.7 5.3m-1.9 1.9l.7 5.3m-1.9 2.4l.7 5.2m-1.9 3.1l.7 5m-1.9 3.5l.7 4.8m-1.9 3.9l.7 4.5m-1.9 4.2l.7 4.2m-1.9 4.1l.7 3.9m-1.9 4l.7 3.4m-1.9 3.7l.7 3m-1.9 3.1l.7 2.6m-1.9 2.3l.7 2.2m-2 1.3l.8 1.8m-2 .3l.8 1.5m-2-.9l.7 1m-1.9-2.1l.7 .8m-1.9-3.3l.7 .5m-1.9-4.4l.7 .3m-1.9-5.5l.7 .2m-1.9-6.3l.7 0m-1.9-7l.7 0m-1.9-7.4l.7-.1m-1.9-7.5l.7-.1m-1.9-7.4l.7 0m-1.9-7.1l.7 0m-1.9-6.5l.7 .1m-1.9-5.7l.7 .2m-1.9-4.8l.7 .3m-1.9-3.8l.7 .5m-1.9-2.8l.7 .6m-2-1.8l.8 .9m-2-.9l.7 1m-1.9 0l.7 1.1m-1.9 .8l.7 1.2m-1.9 1.3l.7 1.3m-1.9 1.7l.7 1.4m-1.9 1.8l.7 1.5m-1.9 1.8l.7 1.5m-1.9 1.6l.7 1.6m-1.9 1.2l.7 1.7m-1.9 .7l.7 1.7m-1.9 .2l.7 1.7m-1.9-.4l.7 1.7m-1.9-.9l.7 1.6m-1.9-1.4l.7 1.6m-1.9-1.8l.7 1.5m-1.9-2.1l.7 1.5m-2-2.3l.8 1.4m-2-2.3l.8 1.2m-2-2.2l.7 1.2m-1.9-2l.7 1m-1.9-1.7l.7 .9m-1.9-1.3l.7 .8m-1.9-1l.7 .7m-1.9-.6l.7 .6m-1.9-.3l.7 .5m-1.9 0l.7 .3m-1.9 .2l.7 .2m-1.9 .2l.7 .2m-1.9 0l.7 .2m-1.9-.4l.7 .3m-1.9-.8l.7 .4m-1.9-1.4l.7 .4m-1.9-2l.7 .6m-1.9-2.8l.7 .9m-2-3.6l.8 1.2m-2-4.3l.7 1.4m-1.9-4.9l.7 1.8m-1.9-5.4l.7 2.1m-1.9-5.7l.7 2.4m-1.9-5.8l.7 2.8m-1.9-5.8l.7 3.2m-1.9-5.5l.7 3.6m-1.9-5l.7 3.9m-1.9-4.2l.7 4.2m-1.9-3.3l.7 4.4m-1.9-2.2l.7 4.7m-1.9-1.1l.7 4.8m-1.9 .1l.7 4.9m-1.9 1.2l.7 5m-1.9 2.3l.7 4.9m-1.9 3.3l.7 4.8m-2 4.1l.8 4.6m-2 4.7l.7 4.4m-1.9 5l.7 4.1m-1.9 5.1l.7 3.7m-1.9 4.9l.7 3.4m-1.9 4.5l.7 2.9m-1.9 3.9l.7 2.4m-1.9 3.1l.7 1.9m-1.9 2.2l.7 1.3m-1.9 1.2l.7 .8m-1.9 0l.7 .3m-1.9-1l.7-.3m-1.9-2l.7-.8m-1.9-3l.7-1.3m-1.9-3.7l.7-1.8"/><path class="s" d="M40.8 -29.1L40.1 -29.4M69.7 -119.5L69 -121.6M78.2 -103.5L77.5 -103.9M116.8 -125.2L116.1 -125.8M133.6 -48.2L132.9 -49M38.9 -30.1L40.1 -29.4M67.8 -125.2L69 -121.6M114.8 -127L116.1 -125.8"/></g>
<g transform="translate(338 268.5)"><path class="fgR" d="M36 -46.6l2.4 10.7 2.4 5.2 2.4-1.1 2.4-7.4 2.4-12.7 2.5-16.2 2.4-17.5 2.4-16.4 2.4-13.4 2.4-8.9 2.4-4.2 2.4 .4 2.4 3.6 2.4 5.5 2.5 5.7 2.4 4.7 2.4 3 2.4 1.2 2.4-.1 2.4-.6 2.4-.3 2.4 .5 2.4 1.6 2.5 2.2 2.4 2.1 2.4 1 2.4-.9 2.4-3.2 2.4-5.3 2.4-6.6 2.4-6.5 2.5-4.7 2.4-1.5 2.4 2.9 2.4 7.5 2.4 11.6 2.4 14.3 2.4 15 2.4 13.4 2.4 9.8 2.5 4.7 2.4-1.2 2.4-6.7 2.4-11.5 2.4-14.5 2.4-16.1 2.4-15.9 2.4-14.6 2.4-12.8 2.5-10.6-.8-4.9-2.4 10.1-2.4 12.5-2.4 14.8-2.4 16.4-2.4 16.8-2.4 15.4-2.4 12.4-2.4 7.6-2.5 1.9-2.4-4.1-2.4-9.4-2.4-13.3-2.4-15.1-2.4-14.5-2.4-11.9-2.4-7.8-2.4-3.1-2.5 1.2-2.4 4.6-2.4 6.4-2.4 6.5-2.4 5.3-2.4 3.2-2.4 .9-2.4-.9-2.4-2-2.5-2-2.4-1.3-2.4-.3-2.4 .5-2.4 .8-2.4 .1-2.4-1.4-2.4-3.3-2.5-5.3-2.4-6.4-2.4-6.3-2.4-4.5-2.4-1.1-2.4 3.6-2.4 8.7-2.4 13.4-2.4 16.8-2.5 18.2-2.4 17.1-2.4 13.7-2.4 8.5-2.4 2.3-2.4-4.1-2.4-9.8z"/><path class="r" d="M35.3 -44.5l1.2 5.5 1.2 4.3 1.2 2.8 1.2 1.3 1.2-.3 1.2-2 1.2-3.5 1.2-5 1.2-6.3 1.2-7.4 1.2-8.3 1.2-8.8 1.2-9.1 1.3-9.1 1.2-8.7 1.2-8.1 1.2-7.2 1.2-6.2 1.2-5 1.2-3.7 1.2-2.5 1.2-1.1 1.2 0 1.2 1.1 1.2 1.9 1.2 2.6 1.2 3 1.2 3.3 1.2 3.3 1.2 3.1 1.3 2.9 1.2 2.4 1.2 1.9 1.2 1.4 1.2 1 1.2 .4 1.2 .1 1.2-.2 1.2-.4 1.2-.4 1.2-.3 1.2-.2 1.2 0 1.2 .3 1.2 .5 1.2 .8 1.2 1 1.3 1 1.2 1.1 1.2 .9 1.2 .6 1.2 .3 1.2-.2 1.2-.7 1.2-1.3 1.2-1.9 1.2-2.4 1.2-2.9 1.2-3.2 1.2-3.3 1.2-3.3 1.2-3.1 1.2-2.6 1.2-2 1.2-1.1 1.3-.1 1.2 .9 1.2 2.2 1.2 3.3 1.2 4.5 1.2 5.5 1.2 6.4 1.2 7.1 1.2 7.4 1.2 7.6 1.2 7.5 1.2 7 1.2 6.3 1.2 5.3 1.2 4.1 1.2 2.8 1.2 1.3 1.3-.1 1.2-1.8 1.2-3.1 1.2-4.5 1.2-5.7 1.2-6.7 1.2-7.4 1.2-8 1.2-8.4 1.2-8.4 1.2-8.3 1.2-8.1 1.2-7.6 1.2-7.2 1.2-6.5 1.2-6 1.2-5.4 1.2-4.7"/><path class="c" d="M155.8 -156.3m0 0l.8 4.9m-2-.2l.8 5.2m-2 .2l.7 5.4m-1.9 .6l.7 5.5m-1.9 1l.7 5.7m-1.9 1.5l.7 5.6m-1.9 2l.7 5.5m-1.9 2.6l.7 5.3m-1.9 3l.7 5m-1.9 3.4l.7 4.7m-1.9 3.7l.7 4.3m-1.9 3.7l.7 3.8m-1.9 3.6l.7 3.4m-1.9 3.3l.7 3m-1.9 2.7l.7 2.5m-1.9 2l.7 2m-1.9 1.1l.7 1.6m-1.9 .2l.7 1.1m-2-1l.8 .9m-2-2.2l.7 .5m-1.9-3.3l.7 .3m-1.9-4.4l.7 0m-1.9-5.3l.7-.1m-1.9-6.2l.7-.2m-1.9-6.8l.7-.2m-1.9-7.3l.7-.2m-1.9-7.4l.7-.1m-1.9-7.3l.7 0m-1.9-7.1l.7 .1m-1.9-6.5l.7 .3m-1.9-5.8l.7 .4m-1.9-4.9l.7 .6m-1.9-3.9l.7 .7m-1.9-2.9l.7 .9m-1.9-1.8l.7 .9m-2-.8l.8 1.1m-2 0l.8 1.2m-2 .8l.7 1.3m-1.9 1.3l.7 1.3m-1.9 1.8l.7 1.4m-1.9 1.9l.7 1.4m-1.9 1.9l.7 1.5m-1.9 1.7l.7 1.5m-1.9 1.4l.7 1.5m-1.9 .9l.7 1.5m-1.9 .4l.7 1.5m-1.9-.2l.7 1.5m-1.9-.8l.7 1.5m-1.9-1.3l.7 1.5m-1.9-1.8l.7 1.5m-1.9-2.1l.7 1.4m-1.9-2.3l.7 1.3m-1.9-2.4l.7 1.3m-2-2.3l.8 1.2m-2-2.2l.7 1.1m-1.9-1.9l.7 1m-1.9-1.5l.7 .8m-1.9-1.1l.7 .7m-1.9-.7l.7 .6m-1.9-.4l.7 .4m-1.9-.1l.7 .4m-1.9 0l.7 .3m-1.9 .1l.7 .2m-1.9 0l.7 .2m-1.9-.3l.7 .2m-1.9-.6l.7 .2m-1.9-1.2l.7 .4m-1.9-1.8l.7 .5m-1.9-2.4l.7 .7m-1.9-3.1l.7 .9m-2-3.8l.8 1.3m-2-4.4l.7 1.6m-1.9-4.9l.7 2m-1.9-5.3l.7 2.5m-1.9-5.5l.7 2.8m-1.9-5.4l.7 3.3m-1.9-5.2l.7 3.7m-1.9-4.8l.7 4.1m-1.9-4.1l.7 4.4m-1.9-3.3l.7 4.8m-1.9-2.3l.7 5m-1.9-1.3l.7 5.1m-1.9-.1l.7 5.2m-1.9 1l.7 5.2m-1.9 2l.7 5.2m-1.9 2.9l.7 5m-1.9 3.7l.7 4.8m-2 4.3l.8 4.5m-2 4.6l.8 4.1m-2 4.7l.7 3.7m-1.9 4.6l.7 3.2m-1.9 4.2l.7 2.7m-1.9 3.6l.7 2.2m-1.9 2.8l.7 1.6m-1.9 1.9l.7 1.1m-1.9 .9l.7 .5m-1.9-.2l.7-.1m-1.9-1.2l.7-.6m-1.9-2.2l.7-1.2m-1.9-3.1l.7-1.6m-1.9-3.9l.7-2.1"/><path class="s" d="M40.8 -30.7L40.1 -30.6M70.9 -116.1L70.2 -117.7M79.4 -104.4L78.7 -104.6M116.8 -125.8L116.1 -126.7M134.9 -47.5L134.1 -48.4M69 -121L70.2 -117.7M77.5 -105L78.7 -104.6M132.9 -49.7L134.1 -48.4"/></g>
<g transform="translate(338.7 270)"><path class="fgR" d="M36 -50.4l2.4 11.6 2.4 6.2 2.4 0 2.4-6.2 2.4-11.5 2.5-15.2 2.4-16.6 2.4-16 2.4-13.2 2.4-9.2 2.4-4.7 2.4-.5 2.4 2.7 2.5 4.6 2.4 4.8 2.4 4.1 2.4 2.6 2.4 1.1 2.4 0 2.4-.4 2.4 0 2.4 .8 2.5 1.8 2.4 2.4 2.4 2.1 2.4 1 2.4-.9 2.4-3.2 2.4-5.4 2.4-6.5 2.4-6.5 2.5-4.8 2.4-1.6 2.4 2.6 2.4 7.2 2.4 11.2 2.4 14 2.4 14.7 2.4 13.5 2.5 10 2.4 5.3 2.4-.3 2.4-5.8 2.4-10.3 2.4-13.6 2.4-15.2 2.4-15.4 2.4-14.5 2.5-13 2.4-11.2-.7-5.1-2.5 10.6-2.4 12.8-2.4 14.6-2.4 15.9-2.4 16.1-2.4 14.5-2.4 11.5-2.4 6.7-2.4 1.2-2.5-4.7-2.4-9.8-2.4-13.4-2.4-15-2.4-14.3-2.4-11.6-2.4-7.5-2.4-2.9-2.4 1.5-2.5 4.7-2.4 6.5-2.4 6.6-2.4 5.3-2.4 3.2-2.4 .9-2.4-1-2.4-2.1-2.5-2.2-2.4-1.6-2.4-.5-2.4 .3-2.4 .6-2.4 .1-2.4-1.2-2.4-3-2.4-4.7-2.5-5.7-2.4-5.5-2.4-3.6-2.4-.4-2.4 4.2-2.4 8.9-2.4 13.4-2.4 16.4-2.4 17.5-2.5 16.2-2.4 12.7-2.4 7.4-2.4 1.1-2.4-5.2-2.4-10.7z"/><path class="r" d="M35.3 -48.1l1.2 6 1.2 4.7 1.2 3.4 1.2 1.8 1.2 .3 1.2-1.4 1.2-3 1.2-4.4 1.2-5.8 1.2-6.9 1.2-7.8 1.3-8.4 1.2-8.7 1.2-8.8 1.2-8.5 1.2-7.9 1.2-7.2 1.2-6.2 1.2-5.1 1.2-3.8 1.2-2.7 1.2-1.5 1.2-.3 1.2 .7 1.2 1.5 1.2 2.1 1.2 2.7 1.2 2.8 1.2 2.9 1.3 2.8 1.2 2.5 1.2 2.2 1.2 1.7 1.2 1.3 1.2 .8 1.2 .4 1.2 .1 1.2-.2 1.2-.3 1.2-.3 1.2-.3 1.2 0 1.2 .1 1.2 .4 1.2 .7 1.2 .9 1.3 1.1 1.2 1.1 1.2 1.1 1.2 1 1.2 .7 1.2 .3 1.2-.2 1.2-.7 1.2-1.3 1.2-1.9 1.2-2.4 1.2-2.9 1.2-3.2 1.2-3.4 1.2-3.3 1.2-3.2 1.2-2.6 1.3-2.1 1.2-1.2 1.2-.3 1.2 .9 1.2 2 1.2 3.2 1.2 4.3 1.2 5.4 1.2 6.2 1.2 7 1.2 7.3 1.2 7.5 1.2 7.5 1.2 7 1.2 6.4 1.2 5.4 1.2 4.4 1.2 3 1.3 1.7 1.2 .1 1.2-1.3 1.2-2.7 1.2-4 1.2-5.2 1.2-6.3 1.2-7 1.2-7.5 1.2-8 1.2-8.1 1.2-8 1.2-7.9 1.2-7.5 1.2-7.1 1.2-6.7 1.2-6.1 1.3-5.6 1.2-5"/><path class="c" d="M155.9 -152.9m0 0l.7 5.1m-1.9-.1l.7 5.5m-2 .1l.8 5.7m-2 .4l.7 5.9m-1.9 .8l.7 5.9m-1.9 1.2l.7 5.9m-1.9 1.6l.7 5.8m-1.9 2.1l.7 5.5m-1.9 2.5l.7 5.3m-1.9 2.8l.7 4.9m-1.9 3.1l.7 4.4m-1.9 3.1l.7 4m-1.9 3l.7 3.5m-1.9 2.8l.7 2.8m-1.9 2.4l.7 2.3m-1.9 1.7l.7 1.8m-1.9 .9l.7 1.4m-1.9-.1l.7 .9m-1.9-1l.7 .5m-2-2.2l.8 .2m-2-3.2l.8-.1m-2-4.3l.7-.2m-1.9-5.2l.7-.3m-1.9-6.1l.7-.3m-1.9-6.7l.7-.4m-1.9-7.1l.7-.2m-1.9-7.3l.7-.1m-1.9-7.2l.7 0m-1.9-7l.7 .2m-1.9-6.4l.7 .4m-1.9-5.8l.7 .6m-1.9-4.9l.7 .7m-1.9-3.9l.7 .9m-1.9-2.9l.7 1m-1.9-1.9l.7 1.2m-1.9-.9l.7 1.2m-1.9 0l.7 1.3m-2 .8l.8 1.3m-2 1.3l.7 1.4m-1.9 1.8l.7 1.3m-1.9 2l.7 1.4m-1.9 2l.7 1.3m-1.9 1.9l.7 1.3m-1.9 1.6l.7 1.3m-1.9 1.1l.7 1.4m-1.9 .5l.7 1.4m-1.9-.1l.7 1.4m-1.9-.7l.7 1.4m-1.9-1.2l.7 1.4m-1.9-1.7l.7 1.4m-1.9-2.1l.7 1.4m-1.9-2.4l.7 1.4m-1.9-2.5l.7 1.4m-1.9-2.5l.7 1.3m-2-2.4l.8 1.2m-2-2.1l.7 1.1m-1.9-1.8l.7 1m-1.9-1.4l.7 .9m-1.9-1l.7 .7m-1.9-.7l.7 .6m-1.9-.3l.7 .4m-1.9-.1l.7 .3m-1.9 0l.7 .2m-1.9 0l.7 .1m-1.9-.2l.7 .1m-1.9-.5l.7 .1m-1.9-.9l.7 .2m-1.9-1.5l.7 .4m-1.9-2.1l.7 .6m-1.9-2.8l.7 .9m-1.9-3.4l.7 1.2m-2-4l.8 1.6m-2-4.5l.8 2.1m-2-4.9l.7 2.5m-1.9-5.2l.7 3m-1.9-5.1l.7 3.5m-1.9-5l.7 3.9m-1.9-4.6l.7 4.4m-1.9-4.1l.7 4.8m-1.9-3.3l.7 5.1m-1.9-2.4l.7 5.3m-1.9-1.5l.7 5.5m-1.9-.4l.7 5.6m-1.9 .6l.7 5.6m-1.9 1.6l.7 5.4m-1.9 2.5l.7 5.3m-1.9 3.2l.7 5m-1.9 3.8l.7 4.5m-1.9 4.2l.7 4.1m-2 4.3l.8 3.6m-2 4.2l.7 3.1m-1.9 3.8l.7 2.5m-1.9 3.3l.7 1.9m-1.9 2.5l.7 1.3m-1.9 1.7l.7 .7m-1.9 .7l.7 .1m-1.9-.4l.7-.4m-1.9-1.4l.7-1m-1.9-2.4l.7-1.4m-1.9-3.3l.7-1.9m-1.9-4.1l.7-2.3"/><path class="s" d="M42 -31.8L41.3 -31.9M71 -116L70.2 -117.6M79.4 -105.8L78.7 -105.9M116.8 -126.3L116.1 -127.3M134.9 -48.5L134.2 -49M40.1 -32.2L41.3 -31.9"/></g>
<g transform="translate(339.4 271.5)"><path class="fgR" d="M36 -54.5l2.4 12.3 2.4 7.3 2.4 1.1 2.4-4.9 2.5-10.2 2.4-14 2.4-15.7 2.4-15.3 2.4-13 2.4-9.4 2.4-5.3 2.4-1.4 2.4 1.6 2.5 3.5 2.4 4 2.4 3.4 2.4 2.2 2.4 1 2.4 .2 2.4-.1 2.4 .3 2.5 1.1 2.4 2 2.4 2.4 2.4 2.1 2.4 1 2.4-1 2.4-3.2 2.4-5.3 2.4-6.5 2.5-6.4 2.4-4.8 2.4-1.7 2.4 2.3 2.4 6.9 2.4 10.8 2.4 13.5 2.4 14.5 2.4 13.3 2.5 10.3 2.4 5.9 2.4 .5 2.4-4.6 2.4-9.2 2.4-12.5 2.4-14.3 2.4-14.8 2.5-14.3 2.4-13.2 2.4-11.9-.7-5.3-2.4 11.2-2.5 13-2.4 14.5-2.4 15.4-2.4 15.2-2.4 13.6-2.4 10.3-2.4 5.8-2.4 .3-2.4-5.3-2.5-10-2.4-13.5-2.4-14.7-2.4-14-2.4-11.2-2.4-7.2-2.4-2.6-2.4 1.6-2.5 4.8-2.4 6.5-2.4 6.5-2.4 5.4-2.4 3.2-2.4 .9-2.4-1-2.4-2.1-2.4-2.4-2.5-1.8-2.4-.8-2.4 0-2.4 .4-2.4 0-2.4-1.1-2.4-2.6-2.4-4.1-2.4-4.8-2.5-4.6-2.4-2.7-2.4 .5-2.4 4.7-2.4 9.2-2.4 13.2-2.4 16-2.4 16.6-2.5 15.2-2.4 11.5-2.4 6.2-2.4 0-2.4-6.2-2.4-11.6z"/><path class="r" d="M35.3 -51.9l1.2 6.4 1.2 5.2 1.2 3.8 1.2 2.4 1.2 .8 1.2-.8 1.2-2.4 1.2-3.8 1.2-5.2 1.2-6.3 1.3-7.3 1.2-7.9 1.2-8.3 1.2-8.3 1.2-8.2 1.2-7.8 1.2-7 1.2-6.2 1.2-5.2 1.2-4 1.2-2.9 1.2-1.8 1.2-.7 1.2 .2 1.2 1.1 1.2 1.6 1.2 2.2 1.3 2.4 1.2 2.4 1.2 2.4 1.2 2.2 1.2 1.9 1.2 1.5 1.2 1.1 1.2 .7 1.2 .4 1.2 .1 1.2-.1 1.2-.2 1.2-.2 1.2-.1 1.2 .1 1.2 .3 1.2 .5 1.2 .8 1.3 1 1.2 1.2 1.2 1.2 1.2 1.1 1.2 1 1.2 .7 1.2 .3 1.2-.2 1.2-.7 1.2-1.3 1.2-1.9 1.2-2.5 1.2-2.9 1.2-3.2 1.2-3.3 1.2-3.4 1.2-3.1 1.3-2.7 1.2-2.1 1.2-1.3 1.2-.3 1.2 .7 1.2 1.9 1.2 3 1.2 4.2 1.2 5.2 1.2 6 1.2 6.8 1.2 7.2 1.2 7.4 1.2 7.3 1.2 7.1 1.2 6.4 1.2 5.5 1.3 4.5 1.2 3.3 1.2 2 1.2 .5 1.2-.8 1.2-2.3 1.2-3.5 1.2-4.7 1.2-5.6 1.2-6.5 1.2-7.1 1.2-7.5 1.2-7.7 1.2-7.8 1.2-7.6 1.2-7.4 1.2-7.1 1.2-6.7 1.3-6.3 1.2-5.8 1.2-5.4"/><path class="c" d="M155.9 -149.3m0 0l.7 5.3m-1.9 .1l.7 5.7m-1.9 .1l.7 6m-2 .3l.8 6.1m-2 .6l.8 6.2m-2 .9l.7 6.1m-1.9 1.3l.7 6m-1.9 1.6l.7 5.8m-1.9 2l.7 5.4m-1.9 2.3l.7 5m-1.9 2.5l.7 4.5m-1.9 2.6l.7 4m-1.9 2.5l.7 3.4m-1.9 2.2l.7 2.9m-1.9 1.8l.7 2.3m-1.9 1.2l.7 1.7m-1.9 .6l.7 1.1m-1.9-.3l.7 .7m-1.9-1.2l.7 .3m-1.9-2.3l.7 0m-1.9-3.3l.7-.3m-2-4.2l.8-.4m-2-5.1l.7-.6m-1.9-5.8l.7-.6m-1.9-6.5l.7-.4m-1.9-6.9l.7-.3m-1.9-7.1l.7-.2m-1.9-7l.7 0m-1.9-6.8l.7 .3m-1.9-6.3l.7 .4m-1.9-5.6l.7 .7m-1.9-4.9l.7 .9m-1.9-3.9l.7 1m-1.9-2.9l.7 1.2m-1.9-1.9l.7 1.3m-1.9-1l.7 1.3m-1.9 0l.7 1.4m-1.9 .7l.7 1.4m-2 1.3l.8 1.4m-2 1.7l.7 1.4m-1.9 2l.7 1.3m-1.9 2l.7 1.3m-1.9 1.9l.7 1.3m-1.9 1.6l.7 1.2m-1.9 1.3l.7 1.2m-1.9 .7l.7 1.2m-1.9 .1l.7 1.2m-1.9-.5l.7 1.3m-1.9-1.1l.7 1.3m-1.9-1.6l.7 1.3m-1.9-2l.7 1.3m-1.9-2.3l.7 1.4m-1.9-2.5l.7 1.3m-1.9-2.5l.7 1.3m-1.9-2.5l.7 1.3m-2-2.3l.8 1.2m-2-2l.8 1.1m-2-1.6l.7 .9m-1.9-1.2l.7 .8m-1.9-.9l.7 .6m-1.9-.5l.7 .5m-1.9-.3l.7 .3m-1.9-.1l.7 .2m-1.9-.1l.7 .1m-1.9-.2l.7 0m-1.9-.4l.7 .1m-1.9-.8l.7 .1m-1.9-1.2l.7 .3m-1.9-1.8l.7 .5m-1.9-2.4l.7 .8m-1.9-3l.7 1.2m-1.9-3.6l.7 1.6m-1.9-4l.7 2m-2-4.4l.8 2.5m-2-4.7l.7 3.1m-1.9-4.7l.7 3.6m-1.9-4.7l.7 4.2m-1.9-4.4l.7 4.6m-1.9-3.9l.7 5.1m-1.9-3.3l.7 5.4m-1.9-2.5l.7 5.7m-1.9-1.7l.7 5.9m-1.9-.7l.7 5.9m-1.9 .3l.7 5.8m-1.9 1.2l.7 5.7m-1.9 2.1l.7 5.4m-1.9 2.8l.7 5m-1.9 3.3l.7 4.7m-1.9 3.6l.7 4.1m-1.9 3.8l.7 3.6m-2 3.7l.8 2.9m-2 3.4l.8 2.3m-2 2.9l.7 1.6m-1.9 2.2l.7 1m-1.9 1.4l.7 .3m-1.9 .5l.7-.3m-1.9-.5l.7-.8m-1.9-1.6l.7-1.3m-1.9-2.5l.7-1.9m-1.9-3.3l.7-2.3m-1.9-4.1l.7-2.6"/><path class="s" d="M42 -33.6L41.3 -33.3M72.2 -113.9L71.5 -115.1M80.6 -107.1L79.9 -107.2M118 -124.9L117.3 -125.9M134.9 -49.7L134.2 -50M70.3 -117.5L71.5 -115.1M78.7 -107.3L79.9 -107.2M116.1 -127.8L117.3 -125.9"/></g>
<g transform="translate(340.1 273)"><path class="fgR" d="M36 -58.9l2.4 13.1 2.4 8.2 2.4 2.4 2.5-3.6 2.4-8.8 2.4-12.6 2.4-14.7 2.4-14.5 2.4-12.8 2.4-9.7 2.4-5.9 2.4-2.4 2.5 .5 2.4 2.4 2.4 2.9 2.4 2.7 2.4 1.9 2.4 1 2.4 .3 2.4 .3 2.4 .6 2.5 1.5 2.4 2.1 2.4 2.5 2.4 2 2.4 .9 2.4-1.1 2.4-3.3 2.4-5.2 2.5-6.4 2.4-6.3 2.4-4.7 2.4-1.7 2.4 2.1 2.4 6.5 2.4 10.3 2.4 13 2.4 14.1 2.5 13.2 2.4 10.5 2.4 6.4 2.4 1.4 2.4-3.4 2.4-7.9 2.4-11.2 2.4-13.3 2.4-14.2 2.5-14.1 2.4-13.5 2.4-12.6-.7-5.5-2.4 11.9-2.4 13.2-2.5 14.3-2.4 14.8-2.4 14.3-2.4 12.5-2.4 9.2-2.4 4.6-2.4-.5-2.4-5.9-2.5-10.3-2.4-13.3-2.4-14.5-2.4-13.5-2.4-10.8-2.4-6.9-2.4-2.3-2.4 1.7-2.4 4.8-2.5 6.4-2.4 6.5-2.4 5.3-2.4 3.2-2.4 1-2.4-1-2.4-2.1-2.4-2.4-2.4-2-2.5-1.1-2.4-.3-2.4 .1-2.4-.2-2.4-1-2.4-2.2-2.4-3.4-2.4-4-2.5-3.5-2.4-1.6-2.4 1.4-2.4 5.3-2.4 9.4-2.4 13-2.4 15.3-2.4 15.7-2.4 14-2.5 10.2-2.4 4.9-2.4-1.1-2.4-7.3-2.4-12.3z"/><path class="r" d="M35.3 -56l1.2 6.7 1.2 5.6 1.2 4.4 1.2 2.9 1.2 1.3 1.2-.2 1.2-1.7 1.2-3.2 1.3-4.5 1.2-5.7 1.2-6.6 1.2-7.4 1.2-7.7 1.2-8 1.2-7.8 1.2-7.5 1.2-6.9 1.2-6.1 1.2-5.2 1.2-4.2 1.2-3.2 1.2-2.1 1.2-1.2 1.2-.2 1.2 .5 1.2 1.1 1.3 1.6 1.2 1.9 1.2 2 1.2 2 1.2 1.8 1.2 1.6 1.2 1.3 1.2 .9 1.2 .7 1.2 .3 1.2 .2 1.2 0 1.2-.1 1.2 0 1.2 0 1.2 .3 1.2 .4 1.3 .7 1.2 .9 1.2 1.1 1.2 1.2 1.2 1.2 1.2 1.2 1.2 .9 1.2 .7 1.2 .3 1.2-.2 1.2-.8 1.2-1.3 1.2-1.9 1.2-2.5 1.2-2.8 1.2-3.2 1.2-3.3 1.2-3.3 1.3-3.1 1.2-2.7 1.2-2.1 1.2-1.4 1.2-.3 1.2 .6 1.2 1.7 1.2 2.9 1.2 4 1.2 4.9 1.2 5.9 1.2 6.5 1.2 7 1.2 7.3 1.2 7.2 1.2 6.9 1.2 6.4 1.3 5.7 1.2 4.6 1.2 3.6 1.2 2.3 1.2 .9 1.2-.4 1.2-1.7 1.2-2.9 1.2-4.1 1.2-5.1 1.2-5.9 1.2-6.6 1.2-7 1.2-7.3 1.2-7.4 1.2-7.4 1.2-7.3 1.3-7 1.2-6.8 1.2-6.4 1.2-6.1 1.2-5.8"/><path class="c" d="M155.9 -145.5m0 0l.7 5.5m-1.9 .3l.7 5.9m-1.9 .2l.7 6.2m-1.9 .2l.7 6.4m-1.9 .4l.7 6.5m-2 .5l.8 6.5m-2 .8l.7 6.3m-1.9 1.1l.7 6m-1.9 1.4l.7 5.7m-1.9 1.6l.7 5.2m-1.9 1.8l.7 4.7m-1.9 1.9l.7 4m-1.9 1.9l.7 3.4m-1.9 1.7l.7 2.7m-1.9 1.4l.7 2.1m-1.9 .8l.7 1.5m-1.9 .2l.7 .9m-1.9-.5l.7 .4m-1.9-1.3l.7 0m-1.9-2.3l.7-.4m-1.9-3.2l.7-.5m-1.9-4.1l.7-.7m-2-5l.8-.7m-2-5.7l.7-.7m-1.9-6.2l.7-.6m-1.9-6.6l.7-.4m-1.9-6.9l.7-.2m-1.9-6.8l.7 .1m-1.9-6.6l.7 .3m-1.9-6.2l.7 .6m-1.9-5.5l.7 .8m-1.9-4.8l.7 1m-1.9-3.9l.7 1.2m-1.9-2.9l.7 1.3m-1.9-1.9l.7 1.4m-1.9-1.1l.7 1.5m-1.9-.1l.7 1.4m-1.9 .7l.7 1.4m-1.9 1.3l.7 1.3m-2 1.8l.8 1.3m-2 2l.8 1.2m-2 2.1l.7 1.2m-1.9 2l.7 1.1m-1.9 1.7l.7 1.1m-1.9 1.4l.7 1m-1.9 .9l.7 1m-1.9 .3l.7 1.1m-1.9-.3l.7 1.1m-1.9-.9l.7 1.2m-1.9-1.5l.7 1.3m-1.9-2l.7 1.3m-1.9-2.2l.7 1.3m-1.9-2.5l.7 1.4m-1.9-2.6l.7 1.4m-1.9-2.6l.7 1.3m-1.9-2.4l.7 1.3m-1.9-2.2l.7 1.2m-2-1.9l.8 1.1m-2-1.5l.7 .8m-1.9-1.1l.7 .7m-1.9-.7l.7 .5m-1.9-.5l.7 .3m-1.9-.2l.7 .1m-1.9-.1l.7 0m-1.9-.2l.7 0m-1.9-.3l.7-.1m-1.9-.6l.7 0m-1.9-.9l.7 .1m-1.9-1.4l.7 .3m-1.9-1.9l.7 .7m-1.9-2.5l.7 1m-1.9-3l.7 1.5m-1.9-3.5l.7 2.1m-1.9-4l.7 2.7m-2-4.3l.8 3.2m-2-4.3l.8 3.8m-2-4.3l.7 4.3m-1.9-4.1l.7 4.9m-1.9-3.7l.7 5.3m-1.9-3.2l.7 5.7m-1.9-2.5l.7 5.9m-1.9-1.7l.7 6.1m-1.9-.9l.7 6.2m-1.9-.1l.7 6.2m-1.9 .7l.7 6m-1.9 1.5l.7 5.6m-1.9 2.2l.7 5.2m-1.9 2.8l.7 4.7m-1.9 3l.7 4.2m-1.9 3.2l.7 3.4m-1.9 3.2l.7 2.8m-1.9 2.9l.7 2.1m-2 2.4l.8 1.4m-2 1.8l.7 .7m-1.9 1l.7 .1m-1.9 .1l.7-.6m-1.9-.7l.7-1.2m-1.9-1.7l.7-1.7m-1.9-2.7l.7-2.1m-1.9-3.5l.7-2.5m-1.9-4.2l.7-2.9"/><path class="s" d="M43.2 -35.2L42.5 -35.3M72.2 -114.4L71.5 -115.4M80.6 -108.6L79.9 -108.6M118 -125.2L117.3 -126.4M136.1 -49.9L135.4 -50.3M41.3 -35.1L42.5 -35.3M134.2 -51.2L135.4 -50.3"/></g>
<g transform="translate(340.8 274.5)"><path class="fgR" d="M36 -63.6l2.4 13.8 2.4 9.2 2.4 3.6 2.5-2.1 2.4-7.3 2.4-11.2 2.4-13.4 2.4-13.8 2.4-12.4 2.4-9.9 2.4-6.6 2.5-3.4 2.4-.7 2.4 1 2.4 2 2.4 1.9 2.4 1.5 2.4 .9 2.4 .6 2.4 .7 2.5 1.1 2.4 1.7 2.4 2.3 2.4 2.5 2.4 1.9 2.4 .7 2.4-1.3 2.4-3.3 2.4-5.1 2.5-6.2 2.4-6 2.4-4.6 2.4-1.8 2.4 2 2.4 6 2.4 9.8 2.4 12.4 2.5 13.6 2.4 12.9 2.4 10.7 2.4 6.9 2.4 2.5 2.4-2.2 2.4-6.5 2.4-9.9 2.4-12.2 2.5-13.5 2.4-13.9 2.4-13.8 2.4-13.3-.7-5.7-2.4 12.6-2.4 13.5-2.5 14.1-2.4 14.2-2.4 13.3-2.4 11.2-2.4 7.9-2.4 3.4-2.4-1.4-2.4-6.4-2.4-10.5-2.5-13.2-2.4-14.1-2.4-13-2.4-10.3-2.4-6.5-2.4-2.1-2.4 1.7-2.4 4.7-2.4 6.3-2.5 6.4-2.4 5.2-2.4 3.3-2.4 1.1-2.4-.9-2.4-2-2.4-2.5-2.4-2.1-2.5-1.5-2.4-.6-2.4-.3-2.4-.3-2.4-1-2.4-1.9-2.4-2.7-2.4-2.9-2.4-2.4-2.5-.5-2.4 2.4-2.4 5.9-2.4 9.7-2.4 12.8-2.4 14.5-2.4 14.7-2.4 12.6-2.4 8.8-2.5 3.6-2.4-2.4-2.4-8.2-2.4-13.1z"/><path class="r" d="M35.3 -60.4l1.2 7.1 1.2 6 1.2 4.8 1.2 3.4 1.2 1.9 1.2 .5 1.2-1.1 1.3-2.5 1.2-3.8 1.2-5 1.2-6 1.2-6.6 1.2-7.2 1.2-7.5 1.2-7.4 1.2-7.1 1.2-6.7 1.2-6.1 1.2-5.3 1.2-4.4 1.2-3.4 1.2-2.5 1.2-1.6 1.2-.8 1.3 0 1.2 .5 1.2 1.1 1.2 1.3 1.2 1.4 1.2 1.5 1.2 1.5 1.2 1.2 1.2 1.1 1.2 .8 1.2 .6 1.2 .4 1.2 .2 1.2 .1 1.2 .1 1.2 .2 1.2 .2 1.2 .4 1.3 .7 1.2 .8 1.2 1 1.2 1.1 1.2 1.3 1.2 1.2 1.2 1.1 1.2 .9 1.2 .7 1.2 .2 1.2-.3 1.2-.8 1.2-1.4 1.2-1.9 1.2-2.4 1.2-2.8 1.2-3.1 1.3-3.3 1.2-3.2 1.2-3.1 1.2-2.6 1.2-2.1 1.2-1.3 1.2-.4 1.2 .5 1.2 1.6 1.2 2.7 1.2 3.8 1.2 4.7 1.2 5.6 1.2 6.3 1.2 6.7 1.2 7.1 1.2 7 1.2 6.8 1.3 6.4 1.2 5.7 1.2 4.8 1.2 3.7 1.2 2.7 1.2 1.3 1.2 .1 1.2-1.1 1.2-2.3 1.2-3.5 1.2-4.4 1.2-5.3 1.2-5.9 1.2-6.5 1.2-6.8 1.2-7.1 1.2-7.1 1.3-7.1 1.2-7 1.2-6.9 1.2-6.6 1.2-6.4 1.2-6.2"/><path class="c" d="M155.9 -141.5m0 0l.7 5.7m-1.9 .5l.7 6.1m-1.9 .3l.7 6.4m-1.9 .2l.7 6.7m-1.9 .2l.7 6.7m-1.9 .3l.7 6.7m-2 .4l.8 6.5m-2 .6l.7 6.3m-1.9 .8l.7 5.8m-1.9 1l.7 5.4m-1.9 1.1l.7 4.7m-1.9 1.2l.7 4.1m-1.9 1.2l.7 3.4m-1.9 1l.7 2.7m-1.9 .8l.7 2m-1.9 .3l.7 1.3m-1.9-.2l.7 .8m-1.9-.9l.7 .2m-1.9-1.5l.7-.3m-1.9-2.4l.7-.5m-1.9-3.2l.7-.8m-1.9-4l.7-1m-1.9-4.7l.7-1m-2-5.4l.8-.8m-2-6l.8-.7m-2-6.3l.7-.5m-1.9-6.6l.7-.2m-1.9-6.5l.7 0m-1.9-6.3l.7 .4m-1.9-6l.7 .7m-1.9-5.4l.7 .9m-1.9-4.7l.7 1.2m-1.9-3.9l.7 1.4m-1.9-3l.7 1.5m-1.9-2l.7 1.5m-1.9-1.1l.7 1.6m-1.9-.3l.7 1.6m-1.9 .5l.7 1.5m-1.9 1.1l.7 1.5m-1.9 1.6l.7 1.3m-1.9 1.9l.7 1.2m-2 2.1l.8 1.1m-2 2l.7 1m-1.9 1.8l.7 1m-1.9 1.4l.7 .9m-1.9 1l.7 1m-1.9 .4l.7 .9m-1.9-.1l.7 1m-1.9-.7l.7 1.1m-1.9-1.3l.7 1.1m-1.9-1.8l.7 1.3m-1.9-2.2l.7 1.4m-1.9-2.5l.7 1.4m-1.9-2.6l.7 1.4m-1.9-2.7l.7 1.4m-1.9-2.5l.7 1.3m-1.9-2.3l.7 1.2m-1.9-2l.7 1.1m-2-1.8l.8 1m-2-1.4l.8 .7m-2-.9l.7 .5m-1.9-.7l.7 .3m-1.9-.4l.7 .1m-1.9-.2l.7 0m-1.9-.2l.7-.2m-1.9-.2l.7-.2m-1.9-.4l.7-.1m-1.9-.7l.7 0m-1.9-1.1l.7 .3m-1.9-1.5l.7 .6m-1.9-2.1l.7 1.1m-1.9-2.6l.7 1.5m-1.9-2.9l.7 2m-1.9-3.3l.7 2.6m-1.9-3.7l.7 3.4m-1.9-3.9l.7 3.9m-2-3.9l.8 4.6m-2-3.8l.7 5.1m-1.9-3.5l.7 5.6m-1.9-3.1l.7 6m-1.9-2.6l.7 6.3m-1.9-1.9l.7 6.5m-1.9-1.2l.7 6.5m-1.9-.4l.7 6.4m-1.9 .3l.7 6.1m-1.9 1l.7 5.8m-1.9 1.6l.7 5.4m-1.9 2.1l.7 4.7m-1.9 2.5l.7 4.1m-1.9 2.5l.7 3.5m-1.9 2.5l.7 2.7m-1.9 2.3l.7 1.9m-1.9 1.9l.7 1.2m-2 1.3l.8 .4m-2 .7l.7-.3m-1.9-.2l.7-.9m-1.9-1l.7-1.5m-1.9-1.9l.7-2m-1.9-2.8l.7-2.5m-1.9-3.5l.7-2.9m-1.9-4.2l.7-3.2"/><path class="s" d="M43.2 -37L42.5 -36.7M73.4 -113.8L72.7 -114.4M81.8 -109.9L81.1 -110M118 -125.3L117.3 -126.7M136.1 -51.2L135.4 -51.4M71.5 -115.9L72.7 -114.4M79.9 -110.1L81.1 -110"/></g>
<g transform="translate(341.5 276)"><path class="fgR" d="M36 -68.6l2.4 14.6 2.4 10.1 2.5 4.9 2.4-.7 2.4-5.6 2.4-9.7 2.4-12.1 2.4-12.8 2.4-12 2.4-10.1 2.4-7.3 2.5-4.5 2.4-2.1 2.4-.2 2.4 .7 2.4 1.2 2.4 1.1 2.4 .9 2.4 .9 2.5 1.1 2.4 1.5 2.4 2.1 2.4 2.5 2.4 2.4 2.4 1.7 2.4 .5 2.4-1.4 2.4-3.3 2.5-5.1 2.4-5.9 2.4-5.8 2.4-4.4 2.4-1.7 2.4 1.8 2.4 5.6 2.4 9.1 2.4 11.7 2.5 13 2.4 12.7 2.4 10.7 2.4 7.5 2.4 3.5 2.4-.9 2.4-4.9 2.4-8.4 2.5-11.1 2.4-12.7 2.4-13.7 2.4-14.1 2.4-14-.7-6-2.4 13.3-2.4 13.8-2.4 13.9-2.5 13.5-2.4 12.2-2.4 9.9-2.4 6.5-2.4 2.2-2.4-2.5-2.4-6.9-2.4-10.7-2.4-12.9-2.5-13.6-2.4-12.4-2.4-9.8-2.4-6-2.4-2-2.4 1.8-2.4 4.6-2.4 6-2.5 6.2-2.4 5.1-2.4 3.3-2.4 1.3-2.4-.7-2.4-1.9-2.4-2.5-2.4-2.3-2.4-1.7-2.5-1.1-2.4-.7-2.4-.6-2.4-.9-2.4-1.5-2.4-1.9-2.4-2-2.4-1-2.4 .7-2.5 3.4-2.4 6.6-2.4 9.9-2.4 12.4-2.4 13.8-2.4 13.4-2.4 11.2-2.4 7.3-2.5 2.1-2.4-3.6-2.4-9.2-2.4-13.8z"/><path class="r" d="M35.3 -65.1l1.2 7.4 1.2 6.4 1.2 5.3 1.2 3.9 1.2 2.5 1.2 1.1 1.3-.4 1.2-1.7 1.2-3.1 1.2-4.2 1.2-5.2 1.2-6 1.2-6.6 1.2-6.8 1.2-7 1.2-6.8 1.2-6.4 1.2-6 1.2-5.3 1.2-4.6 1.2-3.7 1.2-2.9 1.2-2.1 1.3-1.3 1.2-.7 1.2 0 1.2 .3 1.2 .7 1.2 .9 1.2 1.1 1.2 1 1.2 .9 1.2 .8 1.2 .7 1.2 .5 1.2 .4 1.2 .4 1.2 .2 1.2 .3 1.2 .4 1.3 .4 1.2 .7 1.2 .8 1.2 .9 1.2 1.1 1.2 1.2 1.2 1.3 1.2 1.2 1.2 1.1 1.2 .8 1.2 .5 1.2 .2 1.2-.4 1.2-.9 1.2-1.3 1.2-2 1.2-2.3 1.2-2.8 1.3-3 1.2-3.2 1.2-3.1 1.2-2.9 1.2-2.6 1.2-2 1.2-1.3 1.2-.5 1.2 .5 1.2 1.5 1.2 2.5 1.2 3.5 1.2 4.5 1.2 5.3 1.2 5.9 1.2 6.5 1.2 6.8 1.3 6.8 1.2 6.7 1.2 6.2 1.2 5.7 1.2 5 1.2 4 1.2 2.9 1.2 1.8 1.2 .7 1.2-.6 1.2-1.6 1.2-2.8 1.2-3.7 1.2-4.6 1.2-5.3 1.2-5.8 1.2-6.4 1.2-6.6 1.3-6.9 1.2-6.9 1.2-7 1.2-6.9 1.2-6.9 1.2-6.7 1.2-6.6"/><path class="c" d="M155.9 -137.3m0 0l.7 6m-1.9 .6l.7 6.4m-1.9 .3l.7 6.7m-1.9 .2l.7 6.9m-1.9 0l.7 7m-1.9 0l.7 6.9m-1.9 0l.7 6.8m-2 .1l.8 6.4m-2 .2l.8 6m-2 .4l.7 5.4m-1.9 .4l.7 4.9m-1.9 .4l.7 4.2m-1.9 .4l.7 3.4m-1.9 .3l.7 2.6m-1.9 .2l.7 1.8m-1.9-.2l.7 1.2m-1.9-.6l.7 .5m-1.9-1.2l.7 0m-1.9-1.8l.7-.5m-1.9-2.4l.7-.8m-1.9-3.2l.7-1.1m-1.9-3.9l.7-1.1m-1.9-4.6l.7-1.1m-1.9-5.1l.7-1.1m-1.9-5.6l.7-.9m-2-5.9l.8-.6m-2-6.2l.7-.3m-1.9-6.2l.7 .1m-1.9-6l.7 .4m-1.9-5.7l.7 .7m-1.9-5.2l.7 1.1m-1.9-4.6l.7 1.3m-1.9-3.8l.7 1.5m-1.9-3l.7 1.6m-1.9-2.1l.7 1.7m-1.9-1.2l.7 1.7m-1.9-.4l.7 1.6m-1.9 .4l.7 1.5m-1.9 1.1l.7 1.4m-1.9 1.5l.7 1.3m-1.9 1.8l.7 1.2m-1.9 2l.7 1m-2 2l.8 .9m-2 1.9l.8 .8m-2 1.5l.7 .9m-1.9 1.1l.7 .8m-1.9 .5l.7 .9m-1.9 0l.7 .9m-1.9-.5l.7 1m-1.9-1.2l.7 1.2m-1.9-1.7l.7 1.2m-1.9-2l.7 1.3m-1.9-2.4l.7 1.4m-1.9-2.6l.7 1.4m-1.9-2.7l.7 1.5m-1.9-2.7l.7 1.4m-1.9-2.5l.7 1.3m-1.9-2.2l.7 1.1m-1.9-1.9l.7 .9m-1.9-1.6l.7 .8m-2-1.2l.8 .5m-2-.9l.7 .3m-1.9-.6l.7 .1m-1.9-.3l.7-.1m-1.9-.3l.7-.2m-1.9-.2l.7-.2m-1.9-.3l.7-.2m-1.9-.5l.7 0m-1.9-.8l.7 .2m-1.9-1.1l.7 .5m-1.9-1.5l.7 .9m-1.9-2l.7 1.6m-1.9-2.5l.7 2.2m-1.9-2.9l.7 2.8m-1.9-3.1l.7 3.4m-1.9-3.4l.7 4.2m-1.9-3.5l.7 4.8m-2-3.5l.8 5.4m-2-3.3l.7 5.9m-1.9-3l.7 6.3m-1.9-2.6l.7 6.6m-1.9-2l.7 6.7m-1.9-1.4l.7 6.8m-1.9-.8l.7 6.6m-1.9-.2l.7 6.4m-1.9 .4l.7 6m-1.9 1l.7 5.4m-1.9 1.4l.7 4.9m-1.9 1.7l.7 4.1m-1.9 1.9l.7 3.3m-1.9 1.9l.7 2.6m-1.9 1.6l.7 1.8m-1.9 1.3l.7 .9m-1.9 .8l.7 .2m-2 .2l.8-.5m-2-.6l.8-1.2m-2-1.3l.7-1.8m-1.9-2.1l.7-2.3m-1.9-3l.7-2.7m-1.9-3.7l.7-3.1m-1.9-4.3l.7-3.5"/><path class="s" d="M44.5 -38.7L43.8 -38.9M73.4 -114.8L72.7 -115.3M83 -110.8L82.3 -111.1M118 -125.3L117.3 -126.8M137.3 -51.5L136.6 -52M42.5 -38.5L43.8 -38.9M81.1 -111.4L82.3 -111.1M135.4 -52.7L136.6 -52"/></g>
<g transform="translate(342.2 277.5)"><path class="fgR" d="M36 -73.8l2.4 15.2 2.5 11.1 2.4 6.2 2.4 .9 2.4-4 2.4-7.9 2.4-10.7 2.4-11.8 2.4-11.6 2.4-10.2 2.5-8.1 2.4-5.7 2.4-3.4 2.4-1.7 2.4-.4 2.4 .4 2.4 .7 2.4 .9 2.4 1.2 2.5 1.5 2.4 2 2.4 2.4 2.4 2.6 2.4 2.4 2.4 1.5 2.4 .2 2.4-1.5 2.5-3.4 2.4-4.9 2.4-5.7 2.4-5.5 2.4-4.1 2.4-1.6 2.4 1.5 2.4 5.2 2.4 8.4 2.5 11 2.4 12.4 2.4 12.3 2.4 10.8 2.4 8.1 2.4 4.5 2.4 .5 2.4-3.4 2.4-6.8 2.5-9.8 2.4-11.9 2.4-13.5 2.4-14.4 2.4-14.8-.7-6.1-2.4 14-2.4 14.1-2.4 13.7-2.4 12.7-2.5 11.1-2.4 8.4-2.4 4.9-2.4 .9-2.4-3.5-2.4-7.5-2.4-10.7-2.4-12.7-2.5-13-2.4-11.7-2.4-9.1-2.4-5.6-2.4-1.8-2.4 1.7-2.4 4.4-2.4 5.8-2.4 5.9-2.5 5.1-2.4 3.3-2.4 1.4-2.4-.5-2.4-1.7-2.4-2.4-2.4-2.5-2.4-2.1-2.4-1.5-2.5-1.1-2.4-.9-2.4-.9-2.4-1.1-2.4-1.2-2.4-.7-2.4 .2-2.4 2.1-2.5 4.5-2.4 7.3-2.4 10.1-2.4 12-2.4 12.8-2.4 12.1-2.4 9.7-2.4 5.6-2.4 .7-2.5-4.9-2.4-10.1-2.4-14.6z"/><path class="r" d="M35.3 -70.1l1.2 7.8 1.2 6.8 1.2 5.7 1.2 4.4 1.3 3.1 1.2 1.8 1.2 .3 1.2-1 1.2-2.2 1.2-3.4 1.2-4.5 1.2-5.2 1.2-5.8 1.2-6.3 1.2-6.4 1.2-6.4 1.2-6.2 1.2-5.8 1.2-5.4 1.2-4.7 1.2-4 1.2-3.3 1.3-2.6 1.2-1.9 1.2-1.3 1.2-.8 1.2-.3 1.2 .1 1.2 .3 1.2 .4 1.2 .6 1.2 .6 1.2 .6 1.2 .5 1.2 .5 1.2 .4 1.2 .5 1.2 .4 1.2 .5 1.3 .6 1.2 .7 1.2 .8 1.2 1 1.2 1.1 1.2 1.2 1.2 1.3 1.2 1.2 1.2 1.2 1.2 1 1.2 .7 1.2 .5 1.2 0 1.2-.5 1.2-.9 1.2-1.4 1.2-1.9 1.3-2.4 1.2-2.7 1.2-2.9 1.2-3 1.2-3 1.2-2.8 1.2-2.5 1.2-1.9 1.2-1.2 1.2-.5 1.2 .4 1.2 1.4 1.2 2.3 1.2 3.3 1.2 4.1 1.2 5 1.2 5.6 1.2 6.1 1.3 6.5 1.2 6.5 1.2 6.5 1.2 6.2 1.2 5.7 1.2 5 1.2 4.3 1.2 3.2 1.2 2.3 1.2 1.2 1.2 .1 1.2-1 1.2-2 1.2-2.9 1.2-3.8 1.2-4.6 1.2-5.3 1.3-5.8 1.2-6.2 1.2-6.5 1.2-6.8 1.2-6.9 1.2-7 1.2-7.1 1.2-7 1.2-7"/><path class="c" d="M155.9 -132.8m0 0l.7 6.1m-1.9 .9l.7 6.5m-1.9 .5l.7 6.9m-1.9 .2l.7 7.1m-1.9-.1l.7 7.2m-1.9-.3l.7 7.2m-1.9-.4l.7 7m-1.9-.5l.7 6.7m-1.9-.5l.7 6.2m-2-.4l.8 5.6m-2-.3l.7 4.9m-1.9-.3l.7 4.1m-1.9-.3l.7 3.3m-1.9-.4l.7 2.6m-1.9-.6l.7 1.8m-1.9-.8l.7 1m-1.9-1.1l.7 .4m-1.9-1.6l.7-.2m-1.9-2.1l.7-.6m-1.9-2.6l.7-1.1m-1.9-3.2l.7-1.2m-1.9-3.8l.7-1.4m-1.9-4.3l.7-1.3m-1.9-4.9l.7-1.2m-1.9-5.3l.7-.9m-1.9-5.6l.7-.7m-2-5.8l.8-.3m-2-5.8l.8 .1m-2-5.7l.7 .4m-1.9-5.4l.7 .8m-1.9-4.9l.7 1.1m-1.9-4.4l.7 1.4m-1.9-3.7l.7 1.5m-1.9-2.9l.7 1.7m-1.9-2.1l.7 1.8m-1.9-1.3l.7 1.7m-1.9-.5l.7 1.7m-1.9 .2l.7 1.6m-1.9 .9l.7 1.4m-1.9 1.4l.7 1.3m-1.9 1.7l.7 1.1m-1.9 1.9l.7 1m-1.9 1.9l.7 .9m-1.9 1.8l.7 .8m-2 1.6l.8 .7m-2 1.2l.7 .7m-1.9 .7l.7 .8m-1.9 .1l.7 .9m-1.9-.4l.7 .9m-1.9-.9l.7 1m-1.9-1.5l.7 1.2m-1.9-1.9l.7 1.3m-1.9-2.3l.7 1.4m-1.9-2.6l.7 1.5m-1.9-2.7l.7 1.4m-1.9-2.7l.7 1.4m-1.9-2.6l.7 1.3m-1.9-2.4l.7 1.2m-1.9-2.2l.7 1m-1.9-1.8l.7 .8m-1.9-1.5l.7 .5m-2-1.1l.8 .3m-2-.8l.7 .1m-1.9-.5l.7-.2m-1.9-.3l.7-.2m-1.9-.2l.7-.3m-1.9-.2l.7-.2m-1.9-.3l.7-.1m-1.9-.5l.7 .2m-1.9-.8l.7 .5m-1.9-1.1l.7 1m-1.9-1.4l.7 1.5m-1.9-1.8l.7 2.1m-1.9-2.2l.7 2.8m-1.9-2.5l.7 3.6m-1.9-2.8l.7 4.2m-1.9-2.9l.7 4.9m-1.9-3l.7 5.6m-2-3l.8 6.1m-2-2.8l.8 6.6m-2-2.6l.7 6.9m-1.9-2.2l.7 7.1m-1.9-1.7l.7 7m-1.9-1.2l.7 6.9m-1.9-.7l.7 6.6m-1.9-.2l.7 6.2m-1.9 .2l.7 5.6m-1.9 .7l.7 4.9m-1.9 .9l.7 4.2m-1.9 1l.7 3.4m-1.9 1.1l.7 2.4m-1.9 1l.7 1.6m-1.9 .6l.7 .8m-1.9 .2l.7 0m-1.9-.3l.7-.8m-1.9-1l.7-1.5m-2-1.6l.8-2.1m-2-2.3l.7-2.7m-1.9-3l.7-3.1m-1.9-3.7l.7-3.5m-1.9-4.3l.7-3.7"/><path class="s" d="M44.5 -40.2L43.8 -40.2M74.6 -115.5L73.9 -115.7M84.3 -111.2L83.6 -111.7M119.2 -123.1L118.5 -124.5M137.3 -52.6L136.6 -53M72.7 -116.3L73.9 -115.7M82.3 -112.3L83.6 -111.7M117.3 -126.8L118.5 -124.5"/></g>
<g transform="translate(342.9 279)"><path class="fgR" d="M36 -79.3l2.5 15.8 2.4 12.1 2.4 7.5 2.4 2.6 2.4-2.2 2.4-6.2 2.4-9.1 2.4-10.7 2.4-11.1 2.5-10.4 2.4-8.8 2.4-6.9 2.4-5 2.4-3.1 2.4-1.6 2.4-.5 2.4 .3 2.4 .9 2.5 1.5 2.4 2 2.4 2.5 2.4 2.8 2.4 2.7 2.4 2.3 2.4 1.3 2.4-.1 2.4-1.7 2.5-3.4 2.4-4.8 2.4-5.4 2.4-5.1 2.4-3.8 2.4-1.6 2.4 1.4 2.4 4.6 2.5 7.8 2.4 10.2 2.4 11.6 2.4 11.9 2.4 10.8 2.4 8.7 2.4 5.6 2.4 2 2.4-1.7 2.5-5.3 2.4-8.4 2.4-11.1 2.4-13.1 2.4-14.7 2.4-15.7-.7-6.3-2.4 14.8-2.4 14.4-2.4 13.5-2.4 11.9-2.5 9.8-2.4 6.8-2.4 3.4-2.4-.5-2.4-4.5-2.4-8.1-2.4-10.8-2.4-12.3-2.4-12.4-2.5-11-2.4-8.4-2.4-5.2-2.4-1.5-2.4 1.6-2.4 4.1-2.4 5.5-2.4 5.7-2.4 4.9-2.5 3.4-2.4 1.5-2.4-.2-2.4-1.5-2.4-2.4-2.4-2.6-2.4-2.4-2.4-2-2.5-1.5-2.4-1.2-2.4-.9-2.4-.7-2.4-.4-2.4 .4-2.4 1.7-2.4 3.4-2.4 5.7-2.5 8.1-2.4 10.2-2.4 11.6-2.4 11.8-2.4 10.7-2.4 7.9-2.4 4-2.4-.9-2.4-6.2-2.5-11.1-2.4-15.2z"/><path class="r" d="M35.3 -75.3l1.2 8 1.2 7.2 1.2 6.1 1.3 5 1.2 3.7 1.2 2.5 1.2 1.1 1.2-.2 1.2-1.4 1.2-2.6 1.2-3.5 1.2-4.4 1.2-5.1 1.2-5.6 1.2-5.8 1.2-6 1.2-5.9 1.2-5.7 1.2-5.3 1.2-4.9 1.3-4.3 1.2-3.8 1.2-3.1 1.2-2.6 1.2-2 1.2-1.4 1.2-1.1 1.2-.6 1.2-.3 1.2-.1 1.2 .1 1.2 .3 1.2 .3 1.2 .4 1.2 .4 1.2 .5 1.2 .5 1.2 .7 1.3 .7 1.2 .8 1.2 1 1.2 1 1.2 1.2 1.2 1.2 1.2 1.3 1.2 1.3 1.2 1.3 1.2 1.1 1.2 .9 1.2 .6 1.2 .3 1.2-.1 1.2-.5 1.2-1 1.2-1.5 1.3-1.9 1.2-2.3 1.2-2.6 1.2-2.8 1.2-2.9 1.2-2.8 1.2-2.7 1.2-2.3 1.2-1.8 1.2-1.2 1.2-.4 1.2 .3 1.2 1.2 1.2 2.2 1.2 3 1.2 3.8 1.2 4.6 1.3 5.3 1.2 5.7 1.2 6.1 1.2 6.3 1.2 6.2 1.2 6.1 1.2 5.6 1.2 5.2 1.2 4.4 1.2 3.7 1.2 2.7 1.2 1.8 1.2 .7 1.2-.2 1.2-1.2 1.2-2.2 1.2-3 1.2-3.8 1.3-4.6 1.2-5.2 1.2-5.7 1.2-6.2 1.2-6.6 1.2-6.9 1.2-7.1 1.2-7.3 1.2-7.4 1.2-7.4"/><path class="c" d="M155.9 -128.2m0 0l.7 6.3m-1.9 1.1l.7 6.8m-1.9 .6l.7 7.2m-1.9 .1l.7 7.4m-1.9-.3l.7 7.5m-1.9-.6l.7 7.4m-1.9-.8l.7 7.1m-1.9-.9l.7 6.8m-1.9-1.1l.7 6.3m-1.9-1.1l.7 5.7m-2-1.1l.8 4.9m-2-1.1l.7 4.2m-1.9-1.2l.7 3.4m-1.9-1.2l.7 2.5m-1.9-1.3l.7 1.7m-1.9-1.5l.7 .9m-1.9-1.6l.7 .2m-1.9-2l.7-.4m-1.9-2.3l.7-.9m-1.9-2.8l.7-1.2m-1.9-3.2l.7-1.5m-1.9-3.7l.7-1.5m-1.9-4.1l.7-1.5m-1.9-4.6l.7-1.3m-1.9-4.9l.7-1.1m-1.9-5.2l.7-.7m-1.9-5.4l.7-.3m-1.9-5.4l.7 0m-2-5.3l.8 .5m-2-5.1l.7 .8m-1.9-4.6l.7 1.1m-1.9-4.1l.7 1.4m-1.9-3.6l.7 1.7m-1.9-2.9l.7 1.8m-1.9-2.1l.7 1.8m-1.9-1.4l.7 1.9m-1.9-.7l.7 1.8m-1.9 0l.7 1.7m-1.9 .6l.7 1.5m-1.9 1.2l.7 1.3m-1.9 1.5l.7 1.1m-1.9 1.8l.7 1m-1.9 1.8l.7 .8m-1.9 1.8l.7 .7m-1.9 1.6l.7 .7m-2 1.2l.8 .7m-2 .8l.7 .7m-1.9 .3l.7 .8m-1.9-.3l.7 .9m-1.9-.8l.7 1m-1.9-1.3l.7 1.2m-1.9-1.8l.7 1.3m-1.9-2.2l.7 1.4m-1.9-2.5l.7 1.4m-1.9-2.7l.7 1.5m-1.9-2.8l.7 1.5m-1.9-2.8l.7 1.4m-1.9-2.6l.7 1.2m-1.9-2.4l.7 1m-1.9-2l.7 .7m-1.9-1.7l.7 .5m-1.9-1.3l.7 .3m-2-1l.8 0m-2-.7l.8-.1m-2-.4l.7-.3m-1.9-.2l.7-.3m-1.9-.1l.7-.3m-1.9-.1l.7-.2m-1.9-.1l.7 .1m-1.9-.4l.7 .5m-1.9-.6l.7 1m-1.9-.9l.7 1.5m-1.9-1.2l.7 2.2m-1.9-1.6l.7 3m-1.9-1.9l.7 3.6m-1.9-2.2l.7 4.5m-1.9-2.5l.7 5.2m-1.9-2.6l.7 5.8m-1.9-2.7l.7 6.4m-1.9-2.6l.7 6.8m-2-2.5l.8 7.1m-2-2.2l.7 7.3m-1.9-2l.7 7.3m-1.9-1.6l.7 7.1m-1.9-1.2l.7 6.8m-1.9-.8l.7 6.3m-1.9-.5l.7 5.7m-1.9-.1l.7 5m-1.9 .1l.7 4.1m-1.9 .3l.7 3.3m-1.9 .2l.7 2.4m-1.9 .2l.7 1.5m-1.9-.1l.7 .6m-1.9-.4l.7-.3m-1.9-.8l.7-1.1m-1.9-1.4l.7-1.7m-1.9-2l.7-2.4m-2-2.6l.8-2.9m-2-3.2l.8-3.4m-2-3.8l.7-3.7m-1.9-4.3l.7-4"/><path class="s" d="M44.5 -42L43.8 -41.7M74.6 -116.9L73.9 -117M84.3 -112.2L83.6 -112.7M119.2 -123.2L118.5 -124.6M138.5 -52.5L137.8 -53.4M136.6 -54.1L137.8 -53.4"/></g>
<g transform="translate(343.6 280.5)"><path class="fgR" d="M36 -85.1l2.5 16.5 2.4 13.1 2.4 8.8 2.4 4.3 2.4-.3 2.4-4.3 2.4-7.5 2.4-9.6 2.5-10.5 2.4-10.5 2.4-9.6 2.4-8.2 2.4-6.5 2.4-4.6 2.4-2.9 2.4-1.5 2.4-.1 2.5 1 2.4 1.8 2.4 2.5 2.4 3 2.4 3.1 2.4 2.9 2.4 2.1 2.4 1.1 2.4-.4 2.5-1.9 2.4-3.4 2.4-4.6 2.4-5 2.4-4.8 2.4-3.5 2.4-1.4 2.4 1.1 2.4 4.1 2.5 7 2.4 9.3 2.4 10.9 2.4 11.5 2.4 10.8 2.4 9.2 2.4 6.7 2.4 3.6 2.5 0 2.4-3.5 2.4-7 2.4-10.2 2.4-12.9 2.4-15 2.4-16.5-.7-6.5-2.4 15.7-2.4 14.7-2.4 13.1-2.4 11.1-2.4 8.4-2.5 5.3-2.4 1.7-2.4-2-2.4-5.6-2.4-8.7-2.4-10.8-2.4-11.9-2.4-11.6-2.4-10.2-2.5-7.8-2.4-4.6-2.4-1.4-2.4 1.6-2.4 3.8-2.4 5.1-2.4 5.4-2.4 4.8-2.5 3.4-2.4 1.7-2.4 .1-2.4-1.3-2.4-2.3-2.4-2.7-2.4-2.8-2.4-2.5-2.4-2-2.5-1.5-2.4-.9-2.4-.3-2.4 .5-2.4 1.6-2.4 3.1-2.4 5-2.4 6.9-2.4 8.8-2.5 10.4-2.4 11.1-2.4 10.7-2.4 9.1-2.4 6.2-2.4 2.2-2.4-2.6-2.4-7.5-2.4-12.1-2.5-15.8z"/><path class="r" d="M35.3 -80.8l1.2 8.3 1.3 7.5 1.2 6.6 1.2 5.5 1.2 4.4 1.2 3.1 1.2 1.9 1.2 .7 1.2-.5 1.2-1.7 1.2-2.6 1.2-3.6 1.2-4.2 1.2-4.9 1.2-5.2 1.2-5.5 1.2-5.6 1.2-5.5 1.2-5.3 1.3-5.1 1.2-4.6 1.2-4.2 1.2-3.7 1.2-3.2 1.2-2.7 1.2-2.3 1.2-1.7 1.2-1.4 1.2-1 1.2-.6 1.2-.4 1.2-.1 1.2 0 1.2 .3 1.2 .4 1.2 .5 1.3 .7 1.2 .8 1.2 1 1.2 1 1.2 1.2 1.2 1.3 1.2 1.4 1.2 1.4 1.2 1.4 1.2 1.3 1.2 1.2 1.2 1.1 1.2 .8 1.2 .5 1.2 .1 1.2-.2 1.2-.6 1.2-1.1 1.3-1.5 1.2-1.9 1.2-2.3 1.2-2.5 1.2-2.6 1.2-2.8 1.2-2.6 1.2-2.5 1.2-2.1 1.2-1.7 1.2-1.1 1.2-.5 1.2 .3 1.2 1.1 1.2 1.9 1.2 2.7 1.2 3.5 1.3 4.3 1.2 4.8 1.2 5.4 1.2 5.7 1.2 5.9 1.2 6 1.2 5.9 1.2 5.6 1.2 5.2 1.2 4.7 1.2 4 1.2 3.2 1.2 2.4 1.2 1.4 1.2 .6 1.2-.4 1.2-1.3 1.2-2.2 1.3-3.1 1.2-3.8 1.2-4.6 1.2-5.2 1.2-5.9 1.2-6.3 1.2-6.8 1.2-7.2 1.2-7.5 1.2-7.8 1.2-7.9"/><path class="c" d="M155.9 -123.4m0 0l.7 6.5m-1.9 1.4l.7 7m-1.9 .8l.7 7.3m-1.9 .2l.7 7.5m-1.9-.3l.7 7.6m-1.9-.8l.7 7.6m-1.9-1.3l.7 7.4m-1.9-1.5l.7 6.9m-1.9-1.7l.7 6.5m-1.9-1.9l.7 5.8m-1.9-2l.7 5.1m-2-2l.8 4.2m-2-2l.8 3.3m-2-2l.7 2.5m-1.9-2.1l.7 1.6m-1.9-2.2l.7 .8m-1.9-2.2l.7 0m-1.9-2.4l.7-.6m-1.9-2.6l.7-1.1m-1.9-2.9l.7-1.4m-1.9-3.3l.7-1.6m-1.9-3.6l.7-1.7m-1.9-3.9l.7-1.6m-1.9-4.3l.7-1.5m-1.9-4.5l.7-1.2m-1.9-4.7l.7-.9m-1.9-4.8l.7-.5m-1.9-4.9l.7 0m-1.9-4.8l.7 .4m-2-4.7l.8 .9m-2-4.4l.7 1.2m-1.9-3.9l.7 1.5m-1.9-3.4l.7 1.7m-1.9-2.8l.7 1.9m-1.9-2.2l.7 2m-1.9-1.5l.7 1.9m-1.9-.8l.7 1.8m-1.9-.1l.7 1.7m-1.9 .4l.7 1.5m-1.9 1l.7 1.3m-1.9 1.3l.7 1.2m-1.9 1.6l.7 .9m-1.9 1.7l.7 .8m-1.9 1.7l.7 .7m-1.9 1.6l.7 .6m-1.9 1.3l.7 .6m-2 .9l.8 .6m-2 .5l.8 .7m-2-.1l.7 .8m-1.9-.6l.7 1m-1.9-1.1l.7 1.1m-1.9-1.6l.7 1.2m-1.9-2l.7 1.3m-1.9-2.4l.7 1.5m-1.9-2.7l.7 1.5m-1.9-2.8l.7 1.4m-1.9-2.8l.7 1.3m-1.9-2.7l.7 1.2m-1.9-2.6l.7 1m-1.9-2.3l.7 .8m-1.9-2l.7 .5m-1.9-1.5l.7 .2m-1.9-1.2l.7 0m-1.9-.8l.7-.2m-2-.5l.8-.3m-2-.2l.7-.4m-1.9 0l.7-.4m-1.9 .1l.7-.2m-1.9 .2l.7 0m-1.9 .1l.7 .5m-1.9-.1l.7 1m-1.9-.4l.7 1.6m-1.9-.6l.7 2.3m-1.9-.9l.7 3m-1.9-1.3l.7 3.8m-1.9-1.5l.7 4.5m-1.9-1.8l.7 5.3m-1.9-2.1l.7 6m-1.9-2.3l.7 6.6m-1.9-2.4l.7 7m-1.9-2.4l.7 7.4m-2-2.3l.8 7.5m-2-2.2l.8 7.5m-2-2l.7 7.3m-1.9-1.7l.7 6.9m-1.9-1.4l.7 6.4m-1.9-1.2l.7 5.8m-1.9-.9l.7 5m-1.9-.8l.7 4.2m-1.9-.6l.7 3.2m-1.9-.6l.7 2.3m-1.9-.6l.7 1.3m-1.9-.8l.7 .4m-1.9-1.1l.7-.4m-1.9-1.5l.7-1.3m-1.9-1.8l.7-2m-1.9-2.4l.7-2.6m-1.9-2.9l.7-3.2m-1.9-3.4l.7-3.6m-2-3.9l.8-4m-2-4.3l.7-4.3"/><path class="s" d="M45.7 -42.4L45 -42.8M74.6 -118.4L73.9 -118.4M85.5 -111.7L84.8 -112.5M119.2 -123.2L118.5 -124.7M138.5 -53.2L137.8 -54M43.8 -43.5L45 -42.8M83.6 -113.7L84.8 -112.5"/></g>
<g transform="translate(344.3 282)"><path class="fgR" d="M36.1 -91.2l2.4 17.1 2.4 14.2 2.4 10.3 2.4 6 2.4 1.7 2.4-2.4 2.4-5.8 2.4-8.3 2.5-10 2.4-10.6 2.4-10.4 2.4-9.5 2.4-8 2.4-6.2 2.4-4.3 2.4-2.4 2.5-.6 2.4 1 2.4 2.1 2.4 3.1 2.4 3.5 2.4 3.4 2.4 3 2.4 2.1 2.4 .8 2.5-.7 2.4-2.1 2.4-3.5 2.4-4.3 2.4-4.7 2.4-4.3 2.4-3.2 2.4-1.3 2.4 .9 2.5 3.6 2.4 6.1 2.4 8.5 2.4 10 2.4 11 2.4 10.8 2.4 9.8 2.4 7.9 2.4 5.1 2.5 1.8 2.4-1.8 2.4-5.5 2.4-9.2 2.4-12.6 2.4-15.2 2.4-17.3-.7-6.8-2.4 16.5-2.4 15-2.4 12.9-2.4 10.2-2.4 7-2.4 3.5-2.5 0-2.4-3.6-2.4-6.7-2.4-9.2-2.4-10.8-2.4-11.5-2.4-10.9-2.4-9.3-2.5-7-2.4-4.1-2.4-1.1-2.4 1.4-2.4 3.5-2.4 4.8-2.4 5-2.4 4.6-2.4 3.4-2.5 1.9-2.4 .4-2.4-1.1-2.4-2.1-2.4-2.9-2.4-3.1-2.4-3-2.4-2.5-2.4-1.8-2.5-1-2.4 .1-2.4 1.5-2.4 2.9-2.4 4.6-2.4 6.5-2.4 8.2-2.4 9.6-2.4 10.5-2.5 10.5-2.4 9.6-2.4 7.5-2.4 4.3-2.4 .3-2.4-4.3-2.4-8.8-2.4-13.1-2.5-16.5z"/><path class="r" d="M35.3 -86.6l1.3 8.6 1.2 7.9 1.2 7 1.2 6.1 1.2 5 1.2 3.8 1.2 2.8 1.2 1.5 1.2 .4 1.2-.7 1.2-1.7 1.2-2.6 1.2-3.4 1.2-4.1 1.2-4.6 1.2-5 1.2-5.2 1.3-5.3 1.2-5.3 1.2-5.2 1.2-5 1.2-4.6 1.2-4.3 1.2-3.9 1.2-3.5 1.2-3 1.2-2.5 1.2-2.1 1.2-1.7 1.2-1.2 1.2-.9 1.2-.6 1.2-.2 1.2 .1 1.2 .4 1.3 .6 1.2 .8 1.2 1 1.2 1.2 1.2 1.3 1.2 1.5 1.2 1.5 1.2 1.6 1.2 1.5 1.2 1.5 1.2 1.4 1.2 1.2 1.2 .9 1.2 .7 1.2 .4 1.2 0 1.2-.4 1.3-.7 1.2-1.2 1.2-1.5 1.2-1.9 1.2-2.2 1.2-2.4 1.2-2.5 1.2-2.5 1.2-2.5 1.2-2.3 1.2-1.9 1.2-1.6 1.2-1 1.2-.4 1.2 .2 1.2 .9 1.2 1.7 1.2 2.4 1.3 3.2 1.2 3.8 1.2 4.4 1.2 4.9 1.2 5.3 1.2 5.6 1.2 5.7 1.2 5.8 1.2 5.5 1.2 5.3 1.2 4.9 1.2 4.3 1.2 3.7 1.2 3 1.2 2.2 1.2 1.4 1.2 .5 1.3-.5 1.2-1.3 1.2-2.2 1.2-3.1 1.2-3.9 1.2-4.8 1.2-5.4 1.2-6.1 1.2-6.8 1.2-7.3 1.2-7.7 1.2-8.1 1.2-8.4"/><path class="c" d="M155.9 -118.4m0 0l.7 6.8m-1.9 1.6l.7 7.2m-1.9 .9l.7 7.6m-1.9 .1l.7 7.8m-1.9-.5l.7 7.8m-1.9-1l.7 7.7m-1.9-1.6l.7 7.5m-1.9-2.1l.7 7.1m-1.9-2.3l.7 6.5m-1.9-2.6l.7 5.8m-1.9-2.7l.7 5m-1.9-2.8l.7 4.2m-1.9-2.9l.7 3.3m-2-2.8l.8 2.4m-2-2.9l.7 1.5m-1.9-2.9l.7 .7m-1.9-2.9l.7 0m-1.9-3l.7-.7m-1.9-3l.7-1.2m-1.9-3.1l.7-1.6m-1.9-3.3l.7-1.8m-1.9-3.5l.7-1.8m-1.9-3.7l.7-1.8m-1.9-4l.7-1.5m-1.9-4.2l.7-1.3m-1.9-4.3l.7-.9m-1.9-4.4l.7-.4m-1.9-4.5l.7 0m-1.9-4.4l.7 .4m-1.9-4.2l.7 .9m-2-4.1l.8 1.3m-2-3.7l.8 1.6m-2-3.3l.7 1.8m-1.9-2.7l.7 1.9m-1.9-2.1l.7 2m-1.9-1.6l.7 2m-1.9-1l.7 1.9m-1.9-.3l.7 1.7m-1.9 .2l.7 1.6m-1.9 .7l.7 1.4m-1.9 1.1l.7 1.1m-1.9 1.4l.7 .9m-1.9 1.6l.7 .8m-1.9 1.6l.7 .7m-1.9 1.5l.7 .5m-1.9 1.4l.7 .5m-1.9 1l.7 .6m-1.9 .6l.7 .6m-2 .1l.8 .8m-2-.4l.7 .9m-1.9-.9l.7 1.1m-1.9-1.5l.7 1.2m-1.9-1.9l.7 1.4m-1.9-2.3l.7 1.4m-1.9-2.6l.7 1.4m-1.9-2.8l.7 1.4m-1.9-2.9l.7 1.3m-1.9-2.8l.7 1.1m-1.9-2.7l.7 1m-1.9-2.5l.7 .7m-1.9-2.2l.7 .5m-1.9-1.8l.7 .2m-1.9-1.4l.7-.1m-1.9-.9l.7-.3m-1.9-.5l.7-.4m-2-.2l.8-.5m-2 .1l.8-.4m-2 .3l.7-.2m-1.9 .4l.7 .1m-1.9 .5l.7 .5m-1.9 .4l.7 1m-1.9 .2l.7 1.7m-1.9 0l.7 2.4m-1.9-.3l.7 3.1m-1.9-.6l.7 4m-1.9-1l.7 4.8m-1.9-1.3l.7 5.5m-1.9-1.6l.7 6.2m-1.9-1.9l.7 6.8m-1.9-2.2l.7 7.3m-1.9-2.3l.7 7.6m-1.9-2.4l.7 7.7m-1.9-2.4l.7 7.7m-2-2.4l.8 7.5m-2-2.3l.7 7.2m-1.9-2.2l.7 6.6m-1.9-2l.7 5.9m-1.9-1.8l.7 5.1m-1.9-1.7l.7 4.2m-1.9-1.6l.7 3.3m-1.9-1.6l.7 2.3m-1.9-1.6l.7 1.3m-1.9-1.7l.7 .3m-1.9-1.8l.7-.7m-1.9-2.1l.7-1.4m-1.9-2.4l.7-2.3m-1.9-2.7l.7-2.9m-1.9-3.2l.7-3.5m-1.9-3.5l.7-4m-1.9-3.9l.7-4.3m-2-4.3l.8-4.6"/><path class="s" d="M45.7 -43.6L45 -43.9M75.8 -120.3L75.1 -120.1M86.7 -110.7L86 -111.7M120.5 -121L119.7 -122.3M138.5 -54L137.8 -54.7M73.9 -119.9L75.1 -120.1M84.8 -113.2L86 -111.7M118.5 -124.7L119.7 -122.3"/></g>
<g transform="translate(345 283.5)"><path class="fgR" d="M36.1 -97.5l2.4 17.7 2.4 15.2 2.4 11.8 2.4 7.9 2.4 3.7 2.4-.4 2.4-4 2.5-7.1 2.4-9.3 2.4-10.8 2.4-11.2 2.4-10.7 2.4-9.6 2.4-7.8 2.4-5.7 2.4-3.4 2.5-1.1 2.4 1 2.4 2.5 2.4 3.5 2.4 4 2.4 3.8 2.4 3.1 2.4 1.9 2.4 .6 2.5-.9 2.4-2.3 2.4-3.5 2.4-4.1 2.4-4.3 2.4-3.9 2.4-2.9 2.4-1.2 2.5 .7 2.4 3 2.4 5.3 2.4 7.5 2.4 9.3 2.4 10.4 2.4 10.8 2.4 10.4 2.4 9 2.5 6.7 2.4 3.7 2.4 0 2.4-4 2.4-8.2 2.4-12.2 2.4-15.5 2.4-18.1-.7-6.9-2.4 17.3-2.4 15.2-2.4 12.6-2.4 9.2-2.4 5.5-2.4 1.8-2.5-1.8-2.4-5.1-2.4-7.9-2.4-9.8-2.4-10.8-2.4-11-2.4-10-2.4-8.5-2.4-6.1-2.5-3.6-2.4-.9-2.4 1.3-2.4 3.2-2.4 4.3-2.4 4.7-2.4 4.3-2.4 3.5-2.4 2.1-2.5 .7-2.4-.8-2.4-2.1-2.4-3-2.4-3.4-2.4-3.5-2.4-3.1-2.4-2.1-2.4-1-2.5 .6-2.4 2.4-2.4 4.3-2.4 6.2-2.4 8-2.4 9.5-2.4 10.4-2.4 10.6-2.5 10-2.4 8.3-2.4 5.8-2.4 2.4-2.4-1.7-2.4-6-2.4-10.3-2.4-14.2-2.4-17.1z"/><path class="r" d="M35.4 -92.7l1.2 8.9 1.2 8.2 1.2 7.5 1.2 6.7 1.2 5.6 1.2 4.7 1.2 3.5 1.2 2.5 1.2 1.4 1.2 .3 1.2-.7 1.2-1.7 1.2-2.5 1.2-3.3 1.2-3.9 1.2-4.4 1.3-4.9 1.2-5.1 1.2-5.3 1.2-5.3 1.2-5.3 1.2-5.1 1.2-4.9 1.2-4.6 1.2-4.2 1.2-3.8 1.2-3.4 1.2-2.8 1.2-2.4 1.2-1.9 1.2-1.4 1.2-1 1.2-.5 1.3-.1 1.2 .3 1.2 .7 1.2 .9 1.2 1.2 1.2 1.5 1.2 1.6 1.2 1.7 1.2 1.8 1.2 1.7 1.2 1.7 1.2 1.6 1.2 1.4 1.2 1.2 1.2 .9 1.2 .5 1.2 .3 1.2-.2 1.3-.5 1.2-.9 1.2-1.2 1.2-1.6 1.2-1.9 1.2-2 1.2-2.3 1.2-2.4 1.2-2.3 1.2-2.2 1.2-2.1 1.2-1.8 1.2-1.4 1.2-.9 1.2-.4 1.2 .1 1.2 .8 1.3 1.5 1.2 2.1 1.2 2.8 1.2 3.3 1.2 4 1.2 4.5 1.2 4.8 1.2 5.2 1.2 5.5 1.2 5.5 1.2 5.5 1.2 5.3 1.2 5.1 1.2 4.7 1.2 4.2 1.2 3.7 1.2 2.9 1.2 2.2 1.3 1.4 1.2 .4 1.2-.4 1.2-1.4 1.2-2.3 1.2-3.2 1.2-4.2 1.2-5 1.2-5.9 1.2-6.7 1.2-7.3 1.2-7.9 1.2-8.5 1.2-8.8"/><path class="c" d="M155.9 -113.1m0 0l.7 6.9m-1.9 1.9l.7 7.4m-1.9 1.1l.7 7.7m-1.9 .2l.7 7.9m-1.9-.6l.7 8m-1.9-1.3l.7 7.9m-1.9-2l.7 7.6m-1.9-2.6l.7 7.2m-1.9-3l.7 6.6m-1.9-3.4l.7 5.9m-1.9-3.6l.7 5.1m-1.9-3.7l.7 4.2m-1.9-3.8l.7 3.3m-1.9-3.7l.7 2.3m-2-3.7l.8 1.4m-2-3.6l.8 .6m-2-3.5l.7-.2m-1.9-3.5l.7-.8m-1.9-3.4l.7-1.3m-1.9-3.4l.7-1.7m-1.9-3.4l.7-1.9m-1.9-3.4l.7-2m-1.9-3.5l.7-1.9m-1.9-3.6l.7-1.7m-1.9-3.8l.7-1.3m-1.9-3.9l.7-.9m-1.9-3.9l.7-.6m-1.9-3.9l.7-.1m-1.9-3.9l.7 .4m-1.9-3.7l.7 .8m-1.9-3.6l.7 1.2m-1.9-3.3l.7 1.5m-2-3l.8 1.8m-2-2.6l.7 2m-1.9-2.1l.7 2m-1.9-1.6l.7 2m-1.9-1.1l.7 1.9m-1.9-.5l.7 1.8m-1.9 0l.7 1.6m-1.9 .5l.7 1.3m-1.9 .9l.7 1.2m-1.9 1.1l.7 1m-1.9 1.4l.7 .8m-1.9 1.5l.7 .6m-1.9 1.4l.7 .6m-1.9 1.3l.7 .6m-1.9 1l.7 .6m-1.9 .6l.7 .7m-1.9 .2l.7 .8m-2-.3l.8 .9m-2-.7l.7 1m-1.9-1.3l.7 1.2m-1.9-1.7l.7 1.2m-1.9-2.1l.7 1.3m-1.9-2.5l.7 1.4m-1.9-2.8l.7 1.3m-1.9-2.9l.7 1.3m-1.9-3l.7 1.1m-1.9-2.8l.7 .9m-1.9-2.7l.7 .7m-1.9-2.4l.7 .4m-1.9-2l.7 .1m-1.9-1.6l.7 0m-1.9-1.2l.7-.3m-1.9-.6l.7-.4m-1.9-.3l.7-.4m-1.9 .1l.7-.4m-2 .5l.8-.2m-2 .7l.7 .1m-1.9 .9l.7 .5m-1.9 .9l.7 1.1m-1.9 .8l.7 1.7m-1.9 .7l.7 2.5m-1.9 .3l.7 3.3m-1.9 .1l.7 4.1m-1.9-.3l.7 4.9m-1.9-.7l.7 5.7m-1.9-1.1l.7 6.4m-1.9-1.5l.7 6.9m-1.9-1.8l.7 7.4m-1.9-2.1l.7 7.7m-1.9-2.4l.7 7.9m-1.9-2.6l.7 7.9m-1.9-2.8l.7 7.7m-2-2.8l.8 7.2m-2-2.8l.7 6.7m-1.9-2.8l.7 6m-1.9-2.7l.7 5.1m-1.9-2.6l.7 4.2m-1.9-2.5l.7 3.2m-1.9-2.5l.7 2.2m-1.9-2.5l.7 1.1m-1.9-2.5l.7 .2m-1.9-2.7l.7-.8m-1.9-2.7l.7-1.7m-1.9-3l.7-2.4m-1.9-3.2l.7-3.2m-1.9-3.5l.7-3.7m-1.9-3.8l.7-4.2m-1.9-4l.7-4.6m-1.9-4.3l.7-4.8"/><path class="s" d="M46.9 -42.6L46.2 -43.7M75.9 -122L75.1 -121.8M87.9 -109.4L87.2 -110.5M120.5 -121.3L119.8 -122.5M139.8 -51.9L139 -53.3M45 -45.1L46.2 -43.7M86 -112.2L87.2 -110.5M137.8 -55.5L139 -53.3"/></g>
<path d="M381.1,186.0 381.8,191.7 382.6,197.3 383.3,202.7 384.1,207.8 384.8,212.6 385.6,217.2 386.3,221.4 387.1,225.3 387.8,228.8 388.6,231.9 389.4,234.6 390.1,237.0 390.9,238.9 391.6,240.4 392.4,241.6 393.1,242.3 393.9,242.6 394.6,242.5 395.4,242.0 396.1,241.2 396.9,240.1 397.6,238.6 398.4,236.8 399.1,234.7 399.9,232.3 400.7,229.7 401.4,226.9 402.2,224.0 402.9,220.8 403.7,217.5 404.4,214.2 405.2,210.7 405.9,207.2 406.7,203.7 407.4,200.2 408.2,196.8 408.9,193.4 409.7,190.1 410.5,186.9 411.2,183.8 412.0,180.9 412.7,178.1 413.5,175.5 414.2,173.1 415.0,170.9 415.7,169.0 416.5,167.2 417.2,165.7 418.0,164.4 418.7,163.3 419.5,162.5 420.2,161.9 421.0,161.5 421.8,161.3 422.5,161.3 423.3,161.5 424.0,161.9 424.8,162.4 425.5,163.1 426.3,163.9 427.0,164.9 427.8,165.9 428.5,167.0 429.3,168.2 430.0,169.4 430.8,170.7 431.6,171.9 432.3,173.2 433.1,174.4 433.8,175.5 434.6,176.6 435.3,177.6 436.1,178.6 436.8,179.4 437.6,180.1 438.3,180.7 439.1,181.1 439.8,181.4 440.6,181.6 441.3,181.6 442.1,181.5 442.9,181.2 443.6,180.8 444.4,180.2 445.1,179.6 445.9,178.7 446.6,177.8 447.4,176.8 448.1,175.6 448.9,174.4 449.6,173.2 450.4,171.9 451.1,170.5 451.9,169.1 452.7,167.8 453.4,166.5 454.2,165.2 454.9,163.9 455.7,162.8 456.4,161.7 457.2,160.8 457.9,160.0 458.7,159.4 459.4,158.9 460.2,158.6 460.9,158.5 461.7,158.5 462.5,158.8 463.2,159.3 464.0,160.1 464.7,161.0 465.5,162.2 466.2,163.6 467.0,165.3 467.7,167.1 468.5,169.2 469.2,171.5 470.0,174.0 470.7,176.6 471.5,179.5 472.2,182.4 473.0,185.5 473.8,188.7 474.5,192.0 475.3,195.4 476.0,198.7 476.8,202.1 477.5,205.5 478.3,208.9 479.0,212.1 479.8,215.3 480.5,218.3 481.3,221.2 482.0,223.9 482.8,226.4 483.6,228.6 484.3,230.6 485.1,232.3 485.8,233.7 486.6,234.7 487.3,235.4 488.1,235.8 488.8,235.7 489.6,235.3 490.3,234.5 491.1,233.3 491.8,231.7 492.6,229.6 493.3,227.2 494.1,224.3 494.9,221.1 495.6,217.5 496.4,213.5 497.1,209.2 497.9,204.5 498.6,199.6 499.4,194.3 500.1,188.9 500.9,183.2 501.6,177.3" fill="none" stroke="#ff0000" stroke-width="4.6" stroke-linecap="butt" stroke-linejoin="round"/>
<text x="94.4" y="22.2" font-size="12" textLength="60.1" lengthAdjust="spacing"><tspan font-style="italic">g</tspan>(<tspan font-style="italic">x</tspan>, <tspan font-style="italic">α</tspan>) = 0</text>
<text x="365.7" y="24.0" font-size="12" textLength="143.7" lengthAdjust="spacing"><tspan font-style="italic">g</tspan>(<tspan font-style="italic">x</tspan>, <tspan font-style="italic">α</tspan>) = sin(2<tspan font-style="italic">x</tspan>) sin(2<tspan font-style="italic">πα</tspan>)</text>
<text transform="translate(14.6,151.5) rotate(-90)" font-size="12" textLength="34.9" lengthAdjust="spacing"><tspan font-style="italic">f</tspan>(<tspan font-style="italic">x</tspan>, <tspan font-style="italic">α</tspan>)</text>
<text transform="translate(288.3,174.6) rotate(-90)" font-size="12" textLength="80.1" lengthAdjust="spacing"><tspan font-style="italic">f</tspan>(<tspan font-style="italic">x</tspan>, <tspan font-style="italic">α</tspan>, <tspan font-style="italic">g</tspan>(<tspan font-style="italic">x</tspan>, <tspan font-style="italic">α</tspan>))</text>
<text x="168.4" y="306.2" font-size="13.5" text-anchor="middle" font-style="italic">x</text>
<text x="446.7" y="303.8" font-size="13.5" text-anchor="middle" font-style="italic">x</text>
<text x="29.0" y="257.8" font-size="13" text-anchor="middle" font-style="italic">α</text>
<text x="308.6" y="248.2" font-size="13" text-anchor="middle" font-style="italic">α</text>
<line x1="242.3" y1="23.0" x2="197.3" y2="39.5" stroke="#000" stroke-width="1.5"/><path d="M193.1,41.0L199.0,35.4L197.5,39.4L201.2,41.4z" fill="#000"/>
<line x1="295.4" y1="23.0" x2="344.0" y2="49.6" stroke="#000" stroke-width="1.5"/><path d="M347.9,51.8L339.8,51.0L343.8,49.6L342.9,45.4z" fill="#000"/>
<line x1="246.6" y1="67.2" x2="218.3" y2="65.8" stroke="#000" stroke-width="1.5"/><path d="M213.8,65.6L221.4,62.8L218.4,65.8L221.1,69.2z" fill="#000"/>
<line x1="292.1" y1="67.2" x2="377.0" y2="111.9" stroke="#000" stroke-width="1.5"/><path d="M381.0,114.0L372.9,113.3L376.9,111.8L375.9,107.7z" fill="#000"/>
<line x1="232.0" y1="255.3" x2="221.0" y2="241.7" stroke="#000" stroke-width="1.5"/><path d="M218.2,238.2L225.4,242.0L221.1,241.8L220.4,246.0z" fill="#000"/>
<line x1="304.7" y1="264.4" x2="385.4" y2="243.6" stroke="#000" stroke-width="1.5"/><path d="M389.8,242.5L383.3,247.5L385.3,243.7L381.7,241.3z" fill="#000"/>
<rect x="242.3" y="13.8" width="53.1" height="17.3" fill="#fff" stroke="#000" stroke-width="1.5"/><text x="268.9" y="26.0" font-size="10.4" text-anchor="middle" fill="#000" stroke="#000" stroke-width=".12">Derivative</text>
<rect x="246.6" y="59.0" width="45.5" height="17.0" fill="#fff" stroke="#000" stroke-width="1.5"/><text x="269.4" y="71.0" font-size="10.4" text-anchor="middle" fill="#000" stroke="#000" stroke-width=".12">Function</text>
<rect x="232.0" y="255.3" width="72.7" height="18.2" fill="#fff" stroke="#000" stroke-width="1.5"/><text x="268.4" y="267.9" font-size="10.4" text-anchor="middle" fill="#000" stroke="#000" stroke-width=".12">Anti-derivative</text>
</svg>
</body></html>
